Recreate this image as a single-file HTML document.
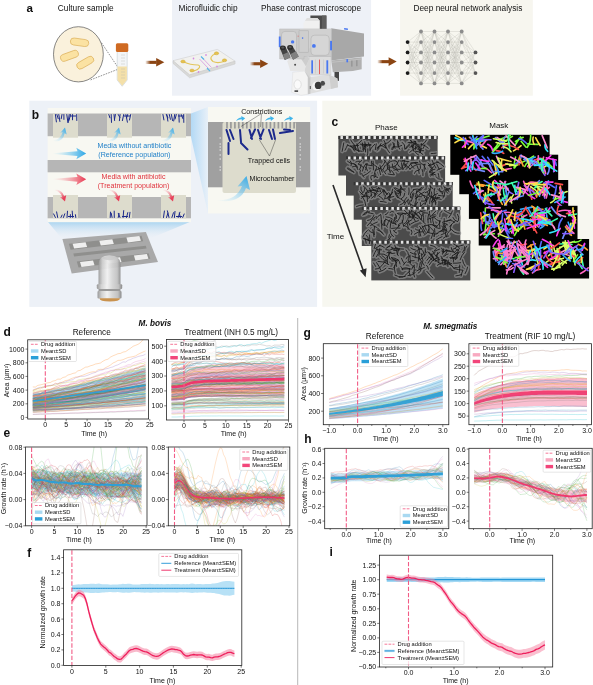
<!DOCTYPE html>
<html><head><meta charset="utf-8"><title>Figure</title>
<style>html,body{margin:0;padding:0;background:#fff}svg{display:block}text{font-family:"Liberation Sans",sans-serif;fill:#111}</style>
</head><body>
<svg width="593" height="685" viewBox="0 0 593 685">
<rect x="172" y="0" width="199.100" height="95.700" fill="#eef1f7"/>
<rect x="400.100" y="0" width="132.700" height="95.700" fill="#f7f6ef"/>
<text x="26.600" y="11.700" font-size="11.600" font-weight="bold">a</text>
<text x="57.800" y="10.800" font-size="8.300">Culture sample</text>
<text x="178.500" y="10.800" font-size="8.300">Microfluidic chip</text>
<text x="261" y="10.800" font-size="8.300">Phase contrast microscope</text>
<text x="413.500" y="10.800" font-size="8.300">Deep neural network analysis</text>
<ellipse cx="78.4" cy="54.3" rx="24.9" ry="27.6" fill="#faf1dc" stroke="#555" stroke-width=".7"/>
<rect x="70.3" y="38.8" width="18.5" height="7" rx="3.5" fill="#fbe2a2" stroke="#d8a84c" stroke-width=".6" transform="rotate(8 79.6 42.3)"/>
<rect x="60.2" y="52.3" width="18.5" height="7" rx="3.5" fill="#fbe2a2" stroke="#d8a84c" stroke-width=".6" transform="rotate(-20 69.5 55.8)"/>
<rect x="76.0" y="59.2" width="18.5" height="7" rx="3.5" fill="#fbe2a2" stroke="#d8a84c" stroke-width=".6" transform="rotate(-30 85.2 62.7)"/>
<path d="M101.5 42.8L117.9 67.3M90.6 79.9L117.9 69.3" stroke="#444" stroke-width=".6" stroke-dasharray="1.6 1.1" fill="none"/>
<path d="M117.2 51.5h10v28.5l-5 6.3l-5-6.3z" fill="#f3f5f7" stroke="#b9c2c9" stroke-width=".5"/>
<path d="M117.5 66.4h9.4v13.5l-4.7 5.9l-4.7-5.9z" fill="#f4e0a9"/>
<path d="M121 55h4M121 58h4M121 61h4M121 64h4M121 69h4M121 72h4M121 75h4M121 78h4" stroke="#b8b8b0" stroke-width=".4"/>
<rect x="115.9" y="43.3" width="12.4" height="8.6" rx="1.5" fill="#cf6a22"/>
<defs><linearGradient id="ga" x1="0" y1="0" x2="1" y2="0"><stop offset="0" stop-color="#8b4513" stop-opacity="0"/><stop offset=".45" stop-color="#8b4513"/></linearGradient></defs>
<rect x="145.2" y="60.8" width="11.4" height="3.100" fill="url(#ga)"/>
<path d="M156.2 58.0L164.3 62.3L156.2 66.6z" fill="#8b4513"/>
<rect x="249.8" y="62.2" width="10.7" height="3.100" fill="url(#ga)"/>
<path d="M260.1 59.5L268.2 63.8L260.1 68.1z" fill="#8b4513"/>
<rect x="377.2" y="60.1" width="11.8" height="3.100" fill="url(#ga)"/>
<path d="M388.6 57.3L396.7 61.6L388.6 65.9z" fill="#8b4513"/>
<path d="M173 60.7L217.4 49.4L235.1 61.2L189.6 74.9z" fill="#f1f1ef" stroke="#c9c9c9" stroke-width=".5"/>
<path d="M173 60.7L189.6 74.9L235.1 61.2v2.8L189.6 77.8L173 63.4z" fill="#d9d9d7" stroke="#c2c2c2" stroke-width=".4"/>
<path d="M184 62c6 3 10 3 14 3c3 1 2 4 -4 6M216 53.5c-5 2 -7 5 -3 8c4 2 8 1 11 0" fill="none" stroke="#e3c55a" stroke-width="1.1"/>
<ellipse cx="183.0" cy="61.5" rx="2.2" ry="1.5" fill="#e6c24e" stroke="#c9a536" stroke-width=".4"/>
<ellipse cx="192.0" cy="70.5" rx="2.2" ry="1.5" fill="#e6c24e" stroke="#c9a536" stroke-width=".4"/>
<ellipse cx="216.5" cy="53.3" rx="2.2" ry="1.5" fill="#e6c24e" stroke="#c9a536" stroke-width=".4"/>
<ellipse cx="224.5" cy="60.3" rx="2.2" ry="1.5" fill="#e6c24e" stroke="#c9a536" stroke-width=".4"/>
<path d="M199.5 59l9 9.5M202.5 58l9 9.5" stroke="#d9a0e0" stroke-width=".9"/>
<path d="M201 56.5l3 3M207 68l3 3.2" stroke="#58b8e8" stroke-width="1.2"/>
<ellipse cx="193.5" cy="58.5" rx=".8" ry="1.1" fill="#d48be0"/>
<ellipse cx="206.0" cy="55.0" rx=".8" ry="1.1" fill="#d48be0"/>
<ellipse cx="198.5" cy="72.0" rx=".8" ry="1.1" fill="#d48be0"/>
<ellipse cx="217.0" cy="66.5" rx=".8" ry="1.1" fill="#d48be0"/>
<g>
<rect x="310.400" y="15.500" width="16" height="13.500" fill="#4c4c4c"/><rect x="322" y="15.500" width="4.400" height="13.500" fill="#5e5e5e"/>
<path d="M306.900 18h10.400l2.500 2.800v8.200h-16.300v-5.700z" fill="#f0f0f0"/><path d="M306.900 18h10.400l2.500 2.800h-14.800z" fill="#dedede"/>
<path d="M331.300 28.300L364 33.600V56.600L331.300 60.400z" fill="#a8a8a8"/>
<path d="M331.300 60.400L361.700 57.200V69.200L352.900 71L332.800 72.300z" fill="#b1b1b1"/>
<path d="M332 62.300L361.700 59" stroke="#c4c4c4" stroke-width=".8"/>
<rect x="351" y="60.600" width="1.600" height="6" fill="#989898"/><rect x="356" y="60.200" width="1.600" height="6" fill="#989898"/>
<rect x="334.500" y="72" width="4.500" height="8.800" fill="#454545"/>
<path d="M307.900 77.200L329.200 74.700L337.400 78.500L338 87.300L307.900 94.200z" fill="#dedede"/>
<path d="M329.200 74.700L337.400 78.500L338 87.300L331 89z" fill="#cfcfcf"/>
<path d="M292.800 72.200L304.700 71L307.900 77.200V94.200L301 95.400L291.600 92.300z" fill="#f3f3f3" stroke="#cfcfcf" stroke-width=".3"/>
<path d="M304.700 71L307.900 77.200V94.200l2.500 -.5V76z" fill="#c8c8c8"/>
<ellipse cx="297.600" cy="84.500" rx="3.600" ry="4.600" fill="#fafafa" stroke="#c9c9c9" stroke-width=".5"/>
<rect x="294.500" y="90.400" width="3.600" height="1.400" fill="#2a2a2a"/>
<ellipse cx="316.500" cy="86" rx="4.300" ry="4.500" fill="#f4f4f4"/><ellipse cx="318.200" cy="85.400" rx="3.400" ry="3.600" fill="#3a3a3a"/><ellipse cx="322.700" cy="83.300" rx="2.300" ry="2.500" fill="#4a4a4a"/>
<rect x="309.800" y="86" width="1" height="3" fill="#555"/>
<rect x="309.500" y="56.500" width="21.500" height="18.500" fill="#dcdcdc" stroke="#bcbcbc" stroke-width=".4"/>
<rect x="311.300" y="60.300" width="1.700" height="13.200" fill="#4a78f0"/><rect x="326.400" y="60.300" width="1.800" height="13.200" fill="#4a78f0"/><rect x="319" y="59.600" width=".9" height="14.500" fill="#e45050"/>
<path d="M315.500 59.500v14M323.500 59.500v14" stroke="#c2c2c2" stroke-width=".5"/>
<path d="M303 59L310 57V78L304.700 71z" fill="#d6d6d6"/>
<path d="M297.800 53.400L309.800 57.800L304.100 71L290.300 71L287.200 60.900z" fill="#e6e6e6"/>
<path d="M297.800 53.400L309.800 57.800L306 66.500L300 57z" fill="#cdcdcd"/>
<circle cx="295.100" cy="64.700" r="1" fill="#4a4a4a"/>
<path d="M279.600 28.900H331.300V56.500H304V59H279.600z" fill="#cbcbcb" stroke="#b0b0b0" stroke-width=".4"/>
<path d="M300 29L331 29L331 40L300 52z" fill="#d6d6d6" opacity=".6"/>
<rect x="281.500" y="31.400" width="15.100" height="22" rx="3.500" fill="#d4d4d4" stroke="#adadad" stroke-width=".5"/>
<rect x="299" y="30.800" width="9.500" height="21.400" fill="#cecece" stroke="#adadad" stroke-width=".5"/>
<rect x="311" y="35.200" width="18.200" height="20.100" rx="3.500" fill="#d6d6d6" stroke="#adadad" stroke-width=".5"/>
<rect x="278.800" y="36.500" width="1.800" height="10.600" fill="#4a78f0"/><rect x="330.100" y="40.900" width="1.900" height="9.400" fill="#4a78f0"/><rect x="346.400" y="59.100" width="1.700" height="3.200" fill="#4a78f0"/><path d="M344.100 29.400l3.800 .6v-1.400l-3.800 -.6z" fill="#4a78f0"/>
<circle cx="292.600" cy="41.900" r="1.700" fill="#4a78f0"/><circle cx="313.900" cy="45.900" r="1.900" fill="#4a78f0"/><circle cx="302.600" cy="38.100" r=".8" fill="#4a78f0"/>
<path d="M297.600 36.200h1.200" stroke="#e45050" stroke-width=".6"/>
<path d="M280.200 48.800l5.200 -2l5 10.500l-5.600 2.800z" fill="#444"/><path d="M287.500 48.400l5.200 -2l6 10l-5.600 3.400z" fill="#444"/>
<path d="M283 54.500l5.400 -2.600l2 5.400l-5.600 2.800z" fill="#808080"/><path d="M290.600 54l5.400 -2.800l2.700 5.200l-5.600 3.400z" fill="#808080"/>
<ellipse cx="282.800" cy="47.800" rx="2.900" ry="2.300" fill="#2c2c2c"/><ellipse cx="290.100" cy="47.400" rx="2.900" ry="2.300" fill="#2c2c2c"/>
<ellipse cx="282.800" cy="47.600" rx="1.600" ry="1.100" fill="#555"/><ellipse cx="290.100" cy="47.200" rx="1.600" ry="1.100" fill="#555"/>
</g>
<path d="M407.6 42.1L421 31.5M407.6 42.1L421 42.1M407.6 42.1L421 52.4M407.6 42.1L421 62.5M407.6 42.1L421 73.1M407.6 42.1L421 83.4M407.6 52.4L421 31.5M407.6 52.4L421 42.1M407.6 52.4L421 52.4M407.6 52.4L421 62.5M407.6 52.4L421 73.1M407.6 52.4L421 83.4M407.6 62.5L421 31.5M407.6 62.5L421 42.1M407.6 62.5L421 52.4M407.6 62.5L421 62.5M407.6 62.5L421 73.1M407.6 62.5L421 83.4M407.6 73.1L421 31.5M407.6 73.1L421 42.1M407.6 73.1L421 52.4M407.6 73.1L421 62.5M407.6 73.1L421 73.1M407.6 73.1L421 83.4M421 31.5L434.5 31.5M421 31.5L434.5 42.1M421 31.5L434.5 52.4M421 31.5L434.5 62.5M421 31.5L434.5 73.1M421 31.5L434.5 83.4M421 42.1L434.5 31.5M421 42.1L434.5 42.1M421 42.1L434.5 52.4M421 42.1L434.5 62.5M421 42.1L434.5 73.1M421 42.1L434.5 83.4M421 52.4L434.5 31.5M421 52.4L434.5 42.1M421 52.4L434.5 52.4M421 52.4L434.5 62.5M421 52.4L434.5 73.1M421 52.4L434.5 83.4M421 62.5L434.5 31.5M421 62.5L434.5 42.1M421 62.5L434.5 52.4M421 62.5L434.5 62.5M421 62.5L434.5 73.1M421 62.5L434.5 83.4M421 73.1L434.5 31.5M421 73.1L434.5 42.1M421 73.1L434.5 52.4M421 73.1L434.5 62.5M421 73.1L434.5 73.1M421 73.1L434.5 83.4M421 83.4L434.5 31.5M421 83.4L434.5 42.1M421 83.4L434.5 52.4M421 83.4L434.5 62.5M421 83.4L434.5 73.1M421 83.4L434.5 83.4M434.5 31.5L448 31.5M434.5 31.5L448 42.1M434.5 31.5L448 52.4M434.5 31.5L448 62.5M434.5 31.5L448 73.1M434.5 31.5L448 83.4M434.5 42.1L448 31.5M434.5 42.1L448 42.1M434.5 42.1L448 52.4M434.5 42.1L448 62.5M434.5 42.1L448 73.1M434.5 42.1L448 83.4M434.5 52.4L448 31.5M434.5 52.4L448 42.1M434.5 52.4L448 52.4M434.5 52.4L448 62.5M434.5 52.4L448 73.1M434.5 52.4L448 83.4M434.5 62.5L448 31.5M434.5 62.5L448 42.1M434.5 62.5L448 52.4M434.5 62.5L448 62.5M434.5 62.5L448 73.1M434.5 62.5L448 83.4M434.5 73.1L448 31.5M434.5 73.1L448 42.1M434.5 73.1L448 52.4M434.5 73.1L448 62.5M434.5 73.1L448 73.1M434.5 73.1L448 83.4M434.5 83.4L448 31.5M434.5 83.4L448 42.1M434.5 83.4L448 52.4M434.5 83.4L448 62.5M434.5 83.4L448 73.1M434.5 83.4L448 83.4M448 31.5L461.7 31.5M448 31.5L461.7 42.1M448 31.5L461.7 52.4M448 31.5L461.7 62.5M448 31.5L461.7 73.1M448 31.5L461.7 83.4M448 42.1L461.7 31.5M448 42.1L461.7 42.1M448 42.1L461.7 52.4M448 42.1L461.7 62.5M448 42.1L461.7 73.1M448 42.1L461.7 83.4M448 52.4L461.7 31.5M448 52.4L461.7 42.1M448 52.4L461.7 52.4M448 52.4L461.7 62.5M448 52.4L461.7 73.1M448 52.4L461.7 83.4M448 62.5L461.7 31.5M448 62.5L461.7 42.1M448 62.5L461.7 52.4M448 62.5L461.7 62.5M448 62.5L461.7 73.1M448 62.5L461.7 83.4M448 73.1L461.7 31.5M448 73.1L461.7 42.1M448 73.1L461.7 52.4M448 73.1L461.7 62.5M448 73.1L461.7 73.1M448 73.1L461.7 83.4M448 83.4L461.7 31.5M448 83.4L461.7 42.1M448 83.4L461.7 52.4M448 83.4L461.7 62.5M448 83.4L461.7 73.1M448 83.4L461.7 83.4M461.7 31.5L475.5 52.4M461.7 31.5L475.5 62.5M461.7 31.5L475.5 73.1M461.7 42.1L475.5 52.4M461.7 42.1L475.5 62.5M461.7 42.1L475.5 73.1M461.7 52.4L475.5 52.4M461.7 52.4L475.5 62.5M461.7 52.4L475.5 73.1M461.7 62.5L475.5 52.4M461.7 62.5L475.5 62.5M461.7 62.5L475.5 73.1M461.7 73.1L475.5 52.4M461.7 73.1L475.5 62.5M461.7 73.1L475.5 73.1M461.7 83.4L475.5 52.4M461.7 83.4L475.5 62.5M461.7 83.4L475.5 73.1" stroke="#a9a9a2" stroke-width=".25" fill="none"/>
<circle cx="407.6" cy="42.1" r="1.900" fill="#1a1a1a"/>
<circle cx="407.6" cy="52.4" r="1.900" fill="#1a1a1a"/>
<circle cx="407.6" cy="62.5" r="1.900" fill="#1a1a1a"/>
<circle cx="407.6" cy="73.1" r="1.900" fill="#1a1a1a"/>
<circle cx="421" cy="31.5" r="1.900" fill="#8c8c8c"/>
<circle cx="421" cy="42.1" r="1.900" fill="#8c8c8c"/>
<circle cx="421" cy="52.4" r="1.900" fill="#8c8c8c"/>
<circle cx="421" cy="62.5" r="1.900" fill="#8c8c8c"/>
<circle cx="421" cy="73.1" r="1.900" fill="#8c8c8c"/>
<circle cx="421" cy="83.4" r="1.900" fill="#8c8c8c"/>
<circle cx="434.5" cy="31.5" r="1.900" fill="#8c8c8c"/>
<circle cx="434.5" cy="42.1" r="1.900" fill="#8c8c8c"/>
<circle cx="434.5" cy="52.4" r="1.900" fill="#8c8c8c"/>
<circle cx="434.5" cy="62.5" r="1.900" fill="#8c8c8c"/>
<circle cx="434.5" cy="73.1" r="1.900" fill="#8c8c8c"/>
<circle cx="434.5" cy="83.4" r="1.900" fill="#8c8c8c"/>
<circle cx="448" cy="31.5" r="1.900" fill="#8c8c8c"/>
<circle cx="448" cy="42.1" r="1.900" fill="#8c8c8c"/>
<circle cx="448" cy="52.4" r="1.900" fill="#8c8c8c"/>
<circle cx="448" cy="62.5" r="1.900" fill="#8c8c8c"/>
<circle cx="448" cy="73.1" r="1.900" fill="#8c8c8c"/>
<circle cx="448" cy="83.4" r="1.900" fill="#8c8c8c"/>
<circle cx="461.7" cy="31.5" r="1.900" fill="#8c8c8c"/>
<circle cx="461.7" cy="42.1" r="1.900" fill="#8c8c8c"/>
<circle cx="461.7" cy="52.4" r="1.900" fill="#8c8c8c"/>
<circle cx="461.7" cy="62.5" r="1.900" fill="#8c8c8c"/>
<circle cx="461.7" cy="73.1" r="1.900" fill="#8c8c8c"/>
<circle cx="461.7" cy="83.4" r="1.900" fill="#8c8c8c"/>
<circle cx="475.5" cy="52.4" r="1.900" fill="#555"/>
<circle cx="475.5" cy="62.5" r="1.900" fill="#555"/>
<circle cx="475.5" cy="73.1" r="1.900" fill="#555"/>
<defs>
<linearGradient id="gb" x1="0" y1="0" x2="1" y2="0"><stop offset="0" stop-color="#7fd3f5" stop-opacity="0"/><stop offset="1" stop-color="#2aa5e6"/></linearGradient>
<linearGradient id="gr" x1="0" y1="0" x2="1" y2="0"><stop offset="0" stop-color="#f59aa0" stop-opacity="0"/><stop offset="1" stop-color="#e8364f"/></linearGradient>
<linearGradient id="gz" x1="0" y1="0" x2="1" y2="0"><stop offset="0" stop-color="#b3d9f5"/><stop offset="1" stop-color="#e8f0f8"/></linearGradient>
<linearGradient id="gv" x1="0" y1="0" x2="0" y2="1"><stop offset="0" stop-color="#a9d4f0"/><stop offset="1" stop-color="#edf1f7" stop-opacity="0"/></linearGradient>
<linearGradient id="gu" x1="0" y1="1" x2="1" y2="0"><stop offset="0" stop-color="#bfe6fa" stop-opacity="0"/><stop offset="1" stop-color="#2aa5e6"/></linearGradient>
</defs>
<rect x="29.3" y="100.700" width="287.800" height="206.200" fill="#edf1f7"/>
<text x="31.800" y="119.200" font-size="12" font-weight="bold">b</text>
<path d="M191 113.5L208 107V213.5L191 137z" fill="url(#gz)"/>
<path d="M47.6 221.6H191L146.6 240L63 240z" fill="url(#gv)"/>
<rect x="47.6" y="108" width="143.4" height="114.200" fill="#f8f8f2"/>
<rect x="47.6" y="113.5" width="143.4" height="22.700" fill="#b6b6b6"/>
<rect x="47.6" y="160" width="143.4" height="12.3" fill="#b6b6b6"/>
<rect x="47.6" y="197" width="143.4" height="21.300" fill="#b6b6b6"/>
<rect x="53" y="113.5" width="25" height="24.200" fill="#dddccd"/>
<rect x="53" y="195" width="25" height="23.300" fill="#dddccd"/>
<rect x="107" y="113.5" width="25" height="24.200" fill="#dddccd"/>
<rect x="107" y="195" width="25" height="23.300" fill="#dddccd"/>
<rect x="161" y="113.5" width="25" height="24.200" fill="#dddccd"/>
<rect x="161" y="195" width="25" height="23.300" fill="#dddccd"/>
<path d="M55.4 114.5l1 7.4M56.9 114.5l1.3 4.2M58.8 114.5l1.1 7M62 114.5l-.8 4.2M63.9 114.5l0 4.9M66.8 114.5l1.1 8M69.2 114.5l-1 7.9M70.6 114.5l-1.6 5.9M72.6 114.5l-.1 5.3M76.7 114.5l.1 6" stroke="#1c2a8c" stroke-width="1" fill="none" stroke-linecap="round"/>
<path d="M55.4 217.5l-1.8 -3.6M57.7 217.5l-1.1 -5.6M60.9 217.5l1.2 -2.5M63.4 217.5l1.4 -3.7M67 217.5l.5 -6.3M70.3 217.5l.1 -2.9M72.7 217.5l-.5 -6.4M75.8 217.5l-.4 -2.8" stroke="#1c2a8c" stroke-width="1" fill="none" stroke-linecap="round"/>
<path d="M70 116h6" stroke="#1c2a8c" stroke-width="1"/>
<path d="M68 216.5h6" stroke="#1c2a8c" stroke-width="1"/>
<path d="M108.8 114.5l1.1 3.3M111.2 114.5l.3 7.9M114 114.5l.6 6M115.4 114.5l-.9 4.9M118.2 114.5l1.7 3M120.1 114.5l-.7 6.2M123.7 114.5l-1.3 6.1M125.9 114.5l1.5 7.7M127.7 114.5l-1.1 3.3M130.7 114.5l-1.2 5.5" stroke="#1c2a8c" stroke-width="1" fill="none" stroke-linecap="round"/>
<path d="M110.2 217.5l.3 -5.4M112.1 217.5l-.9 -4.3M114.3 217.5l-.1 -6.4M118.2 217.5l.9 -3.9M120 217.5l-1.7 -4.2M123.1 217.5l.6 -6.9M126.5 217.5l1.3 -4.9M129.3 217.5l.7 -5.2" stroke="#1c2a8c" stroke-width="1" fill="none" stroke-linecap="round"/>
<path d="M124 116h6" stroke="#1c2a8c" stroke-width="1"/>
<path d="M122 216.5h6" stroke="#1c2a8c" stroke-width="1"/>
<path d="M162.9 114.5l1 5.4M166.3 114.5l1.6 3.3M166.8 114.5l1.1 6.6M169.3 114.5l1.1 4.8M171.4 114.5l1.1 6M174.7 114.5l-1 6.5M176.3 114.5l-1.2 4.5M178.9 114.5l.3 7.7M181.2 114.5l1.6 4M183.7 114.5l.1 7.9" stroke="#1c2a8c" stroke-width="1" fill="none" stroke-linecap="round"/>
<path d="M163.5 217.5l.9 -6.5M166.5 217.5l1.4 -4.4M169 217.5l-1.6 -6.7M171.9 217.5l1.6 -4.8M174.4 217.5l.6 -6.1M178.2 217.5l1.7 -5.3M180.4 217.5l-1.1 -4.3M182.7 217.5l1.5 -3.5" stroke="#1c2a8c" stroke-width="1" fill="none" stroke-linecap="round"/>
<path d="M178 116h6" stroke="#1c2a8c" stroke-width="1"/>
<path d="M176 216.5h6" stroke="#1c2a8c" stroke-width="1"/>
<defs><linearGradient id="gd" x1="0" y1="0" x2="1" y2="1"><stop offset="0" stop-color="#f7b0b8" stop-opacity="0"/><stop offset=".75" stop-color="#e8405a"/></linearGradient></defs>
<path d="M53.3 140.200q7.500 -.8 9.300 -8.200l-2.500 .9l4.900 -5.300l1.700 7l-2.100 -1.300q-1.500 9.300 -11.300 8.200z" fill="url(#gu)"/>
<path d="M55 189.300q7.500 .8 9.200 7l2 -1.100l-1.200 6.300l-5 -4.400l2.200 .2q-1.800 -5.800 -7.200 -6.700z" fill="url(#gd)"/>
<path d="M107.3 140.200q7.500 -.8 9.300 -8.200l-2.500 .9l4.900 -5.300l1.700 7l-2.100 -1.300q-1.500 9.300 -11.300 8.200z" fill="url(#gu)"/>
<path d="M109 189.300q7.500 .8 9.200 7l2 -1.100l-1.200 6.300l-5 -4.400l2.200 .2q-1.800 -5.800 -7.200 -6.700z" fill="url(#gd)"/>
<path d="M161.3 140.200q7.500 -.8 9.300 -8.200l-2.500 .9l4.900 -5.300l1.700 7l-2.100 -1.300q-1.500 9.300 -11.300 8.200z" fill="url(#gu)"/>
<path d="M163 189.300q7.500 .8 9.200 7l2 -1.100l-1.200 6.300l-5 -4.400l2.200 .2q-1.800 -5.800 -7.200 -6.700z" fill="url(#gd)"/>
<path d="M53 153.200L77.500 151.300L76.300 147.800L86.200 153.600L76.300 159.300L77.500 156L53 154z" fill="url(#gb)"/>
<path d="M53 178.800L77.500 176.900L76.300 173.600L86.200 179.300L76.300 185L77.500 181.700L53 179.600z" fill="url(#gr)"/>
<text x="134.400" y="148.300" font-size="7.100" text-anchor="middle" style="fill:#1e7fc8">Media without antibiotic</text>
<text x="134.400" y="157.400" font-size="7.100" text-anchor="middle" style="fill:#1e7fc8">(Reference population)</text>
<text x="133.500" y="178.800" font-size="7.100" text-anchor="middle" style="fill:#e0323c">Media with antibiotic</text>
<text x="133.500" y="187.900" font-size="7.100" text-anchor="middle" style="fill:#e0323c">(Treatment population)</text>
<path d="M62.400 238.900L145.900 232L158 262.100L71.700 273.600z" fill="#a9a9a9"/>
<path d="M68.900 243.700L141.500 235.800L143.200 241.300L70.600 249.700z" fill="#8f8f8d"/>
<path d="M73.300 253.600L145.800 245.800L146.600 248.500L74.100 256.500z" fill="#8f8f8d"/>
<path d="M76.800 261.500L148.600 253.200L150.300 258.800L78.500 267.600z" fill="#8f8f8d"/>
<path d="M72.6 243.8l13 -1.500l1.500 4.700l-13 1.600z" fill="#efefef"/>
<path d="M99.3 240.7l13 -1.500l1.500 4.700l-13 1.600z" fill="#efefef"/>
<path d="M126.4 237.6l13 -1.500l1.500 4.700l-13 1.600z" fill="#efefef"/>
<path d="M80 262l13 -1.600l1.500 4.800l-13 1.700z" fill="#efefef"/>
<path d="M107 258.8l13 -1.600l1.500 4.800l-13 1.700z" fill="#efefef"/>
<path d="M133.9 255.6l13 -1.600l1.500 4.800l-13 1.700z" fill="#efefef"/>
<defs><linearGradient id="go" x1="0" y1="0" x2="1" y2="0"><stop offset="0" stop-color="#9a9a9a"/><stop offset=".18" stop-color="#d2d2d2"/><stop offset=".4" stop-color="#f1f1f1"/><stop offset=".62" stop-color="#d6d6d6"/><stop offset=".85" stop-color="#c2c2c2"/><stop offset="1" stop-color="#8c8c8c"/></linearGradient></defs>
<path d="M98.500 264q0 -8.500 11 -8.500q11 0 11 8.500V285H98.500z" fill="url(#go)" opacity=".93"/>
<ellipse cx="109.500" cy="258" rx="7" ry="2.200" fill="#c9c9c9" opacity=".8"/>
<rect x="96.800" y="284.200" width="25.400" height="4.800" rx="1" fill="url(#go)"/>
<rect x="98.500" y="289" width="22" height="2.200" fill="#9a9a9a"/>
<rect x="97.500" y="291" width="24" height="7.500" rx="1" fill="url(#go)"/>
<path d="M99.500 298.300h20.500q0 3.300 -10.200 3.300q-10.300 0 -10.300 -3.300z" fill="#c9924e"/>
<rect x="208" y="107" width="102.200" height="106.500" fill="#f8f8f2"/>
<rect x="208" y="122" width="16.500" height="65.300" fill="#a0a0a0"/>
<rect x="294.5" y="122" width="15.700" height="65.300" fill="#a0a0a0"/>
<rect x="222.500" y="122" width="73.500" height="71" rx="2" fill="#dddccd"/>
<path d="M227 122v6.500M230.9 122v6.500M234.9 122v6.500M238.8 122v6.500M242.8 122v6.500M246.8 122v6.500M250.7 122v6.500M254.7 122v6.500M258.6 122v6.500M262.6 122v6.500M266.5 122v6.500M270.4 122v6.500M274.4 122v6.500M278.4 122v6.500M282.3 122v6.500M286.2 122v6.500M290.2 122v6.500M294.1 122v6.500" stroke="#9a9a9a" stroke-width="1.700"/>
<path d="M219.5 138h1.500M299.5 138h1.500M219.5 144h1.500M299.5 144h1.500M219.5 147h1.500M299.5 147h1.500M219.5 150h1.500M299.5 150h1.500M219.5 155h1.500M299.5 155h1.500M219.5 159h1.500M299.5 159h1.500M219.5 167h1.500M299.5 167h1.500M219.5 170h1.500M299.5 170h1.500" stroke="#ececec" stroke-width="1.100"/>
<path d="M226.5 130L230 141M230 130L233.5 139M228.5 143L228.5 154M240 130L241 142M241 143L247.5 149.5M249.5 130L252 139M255 129.5L251 138M258 130L261 139M263.5 129.5L260 138.5M269 130L272 139M273 129.5L275 139M280 133L293 131M284 129.5L290 130" stroke="#1c2a8c" stroke-width="2" stroke-linecap="round" fill="none"/>
<path d="M261.500 113.500L241 126.500M261.500 113.500L260.500 127M259.500 140L269.500 156M275.500 140L269.500 156" stroke="#222" stroke-width=".4" fill="none"/>
<text x="261.700" y="113.500" font-size="7.100" text-anchor="middle">Constrictions</text>
<text x="269" y="163" font-size="7.100" text-anchor="middle">Trapped cells</text>
<text x="272" y="181" font-size="7.100" text-anchor="middle">Microchamber</text>
<path d="M236 121q2 -3.500 5.500 -3.500l-.3 -1.500l4 2.300l-3.300 2.600l-.2 -1.600q-2.800 -.2 -5.700 1.700z" fill="#3fb4ea"/>
<path d="M265 121q2 -3.500 5.500 -3.500l-.3 -1.500l4 2.300l-3.300 2.600l-.2 -1.600q-2.800 -.2 -5.700 1.700z" fill="#3fb4ea"/>
<path d="M284 121q2 -3.500 5.500 -3.500l-.3 -1.500l4 2.300l-3.300 2.600l-.2 -1.600q-2.800 -.2 -5.700 1.700z" fill="#3fb4ea"/>
<path d="M214 200q22 2 28 -14l-4.500 .5l9 -10.500l3.500 14l-4 -2q-6 17 -32 12z" fill="url(#gu)"/>
<rect x="322.300" y="100.700" width="270.700" height="206.100" fill="#f7f7f0"/>
<text x="331.500" y="125.500" font-size="12" font-weight="bold">c</text>
<text x="386.300" y="130" font-size="8" text-anchor="middle">Phase</text>
<text x="498.800" y="128.400" font-size="8" text-anchor="middle">Mask</text>
<text x="326.700" y="239.400" font-size="8">Time</text>
<path d="M333 185L364.300 273.500" stroke="#2a2a2a" stroke-width="1.600" fill="none"/>
<path d="M365.600 277.300L359.800 270.600L366.600 268.300z" fill="#2a2a2a"/>
<defs><filter id="bl" x="-5%" y="-20%" width="110%" height="140%"><feGaussianBlur stdDeviation=".7"/></filter></defs>
<g>
<rect x="338.4" y="135.9" width="99.2" height="39.6" fill="#4b4b4b"/>
<rect x="338.4" y="135.9" width="99.2" height="3.200" fill="#333"/>
<path d="M341.7 136.1v3M347.2 136.1v3M352.7 136.1v3M358.2 136.1v3M363.7 136.1v3M369.2 136.1v3M374.7 136.1v3M380.2 136.1v3M385.7 136.1v3M391.2 136.1v3M396.7 136.1v3M402.2 136.1v3M407.7 136.1v3M413.2 136.1v3M418.7 136.1v3M424.2 136.1v3M429.7 136.1v3M435.2 136.1v3" stroke="#e4e4e4" stroke-width="2.500"/>
<path d="M397.5 141q2.5 2.4 .8 5.5M383.7 144.5q1.6 1.5 2.2 3.7M416.6 147.2q-3.7 2.3 -6.9 5.1M424.8 144.8q-.7 2 -1.8 3.8M364.9 141.8q1.2 2.4 -.9 4.1M353.8 144.3q1.6 4.2 4.9 7.2M415 146.7q2.3 2.7 5.3 4.4M414.7 151.2q1.4 2.7 4.1 4M347.3 144.9q3.7 2 7.6 3.4M350.7 145.4q2.1 2.7 3.9 5.7M414.4 140.9q3.2 2.9 4.9 6.9M343.8 142.9q-.8 4.3 -1.7 8.5M365.9 144.6q-1.6 2.5 -2.9 5.1M402.2 142.3q3.5 2.2 2.6 6.2M360.2 144.1q4.1 -.4 7.5 2M418.8 144.3q.9 4.1 1.7 8.2M361.7 140.5q-3.1 2.9 -6.3 5.7M353.6 148.8q4 2.4 8.6 2.6M421.7 148.4q-.8 2.3 -2.1 4.4M411.4 145.4q1.8 2.5 2.3 5.7M421.4 143.5q-.5 3.8 -1.1 7.5M415.9 151.2q4.3 -.1 7.1 3.3M353.3 145.9q2.6 1.1 2.4 4M415.7 141.5q-3.8 .9 -7.7 1.2M361.9 145.3q1.9 .8 3.8 1.6M350.7 139.9q1.1 2.2 2.8 4.1M365.9 144.8q-.4 3.6 -.4 7.1M379 146.3q.9 3 -1.9 4.3M436.2 153.1q-2.5 .4 -5 .5M385.8 146.9q1.7 3.1 3.8 5.9M362.4 143q.4 4.1 1 8.1M409.7 144.9q-2.3 1.6 -3.8 4M410.2 140.2q1.6 2.5 4.5 3.5M358.6 145.4q-3.4 .2 -6.8 .7M367.9 148.8q.5 4.5 -1.3 8.7M382.9 144.8q-3.9 .9 -5.9 4.3M394.3 146.2q-2.8 .3 -2.7 3.1M384 140.4q2.5 3.3 2 7.4M392.9 142.4q1.1 2.9 2.2 5.9M426.7 139.9q-1.8 3.5 -5.3 5.3M415.3 143.1q2.2 3 3.8 6.3M381.1 143.6q-1.1 3 -4.1 4.2M414.8 144.1q-1.5 3.3 -5.1 3.1M415 141.5q2 4.1 .3 8.3M394.3 143.6q0 3.2 -1.6 5.9M371.1 144.5q-2.9 1.5 -5.8 0M376.3 143.9q-.7 2.9 -1 5.8M420.9 144.3q4.4 .6 7.4 3.9M391 140q-2.6 3.5 -7 4.2M413.9 143q-1.6 2.3 -.7 5M410.4 143.2q-3.4 2.4 -5.4 6M347.6 144.9q-1.2 2.7 -2.6 5.3M364.9 145q-2.2 2.6 .1 5M364.9 144.1q3 .6 6 1.3M411.2 140.6q1 3.1 1.3 6.3M380.2 145.3q2.4 .6 4.4 2M356.9 143.8q.6 4 2.1 7.8M401.7 145.5q-3.9 2.5 -8.3 1.2M397.5 140.7q-.9 4.8 2.2 8.5M374.8 144.2q-2.8 2.5 -4.8 5.7M419.2 149.7q2.1 1.4 4.5 1.1M368.4 142.7q2.1 3.9 1.8 8.3" stroke="#8e8e8e" stroke-width="4" stroke-linecap="round" fill="none" opacity=".7" filter="url(#bl)"/>
<path d="M397.5 141q2.5 2.4 .8 5.5M383.7 144.5q1.6 1.5 2.2 3.7M416.6 147.2q-3.7 2.3 -6.9 5.1M424.8 144.8q-.7 2 -1.8 3.8M364.9 141.8q1.2 2.4 -.9 4.1M353.8 144.3q1.6 4.2 4.9 7.2M415 146.7q2.3 2.7 5.3 4.4M414.7 151.2q1.4 2.7 4.1 4M347.3 144.9q3.7 2 7.6 3.4M350.7 145.4q2.1 2.7 3.9 5.7M414.4 140.9q3.2 2.9 4.9 6.9M343.8 142.9q-.8 4.3 -1.7 8.5M365.9 144.6q-1.6 2.5 -2.9 5.1M402.2 142.3q3.5 2.2 2.6 6.2M360.2 144.1q4.1 -.4 7.5 2M418.8 144.3q.9 4.1 1.7 8.2M361.7 140.5q-3.1 2.9 -6.3 5.7M353.6 148.8q4 2.4 8.6 2.6M421.7 148.4q-.8 2.3 -2.1 4.4M411.4 145.4q1.8 2.5 2.3 5.7M421.4 143.5q-.5 3.8 -1.1 7.5M415.9 151.2q4.3 -.1 7.1 3.3M353.3 145.9q2.6 1.1 2.4 4M415.7 141.5q-3.8 .9 -7.7 1.2M361.9 145.3q1.9 .8 3.8 1.6M350.7 139.9q1.1 2.2 2.8 4.1M365.9 144.8q-.4 3.6 -.4 7.1M379 146.3q.9 3 -1.9 4.3M436.2 153.1q-2.5 .4 -5 .5M385.8 146.9q1.7 3.1 3.8 5.9M362.4 143q.4 4.1 1 8.1M409.7 144.9q-2.3 1.6 -3.8 4M410.2 140.2q1.6 2.5 4.5 3.5M358.6 145.4q-3.4 .2 -6.8 .7M367.9 148.8q.5 4.5 -1.3 8.7M382.9 144.8q-3.9 .9 -5.9 4.3M394.3 146.2q-2.8 .3 -2.7 3.1M384 140.4q2.5 3.3 2 7.4M392.9 142.4q1.1 2.9 2.2 5.9M426.7 139.9q-1.8 3.5 -5.3 5.3M415.3 143.1q2.2 3 3.8 6.3M381.1 143.6q-1.1 3 -4.1 4.2M414.8 144.1q-1.5 3.3 -5.1 3.1M415 141.5q2 4.1 .3 8.3M394.3 143.6q0 3.2 -1.6 5.9M371.1 144.5q-2.9 1.5 -5.8 0M376.3 143.9q-.7 2.9 -1 5.8M420.9 144.3q4.4 .6 7.4 3.9M391 140q-2.6 3.5 -7 4.2M413.9 143q-1.6 2.3 -.7 5M410.4 143.2q-3.4 2.4 -5.4 6M347.6 144.9q-1.2 2.7 -2.6 5.3M364.9 145q-2.2 2.6 .1 5M364.9 144.1q3 .6 6 1.3M411.2 140.6q1 3.1 1.3 6.3M380.2 145.3q2.4 .6 4.4 2M356.9 143.8q.6 4 2.1 7.8M401.7 145.5q-3.9 2.5 -8.3 1.2M397.5 140.7q-.9 4.8 2.2 8.5M374.8 144.2q-2.8 2.5 -4.8 5.7M419.2 149.7q2.1 1.4 4.5 1.1M368.4 142.7q2.1 3.9 1.8 8.3" stroke="#1c1c1c" stroke-width=".900" stroke-linecap="round" fill="none"/>
</g>
<g>
<rect x="346" y="156.2" width="99.1" height="39.4" fill="#4b4b4b"/>
<rect x="346" y="156.2" width="99.1" height="3.200" fill="#333"/>
<path d="M349.3 156.4v3M354.8 156.4v3M360.3 156.4v3M365.8 156.4v3M371.3 156.4v3M376.8 156.4v3M382.3 156.4v3M387.8 156.4v3M393.3 156.4v3M398.8 156.4v3M404.3 156.4v3M409.8 156.4v3M415.3 156.4v3M420.8 156.4v3M426.3 156.4v3M431.8 156.4v3M437.3 156.4v3M442.8 156.4v3" stroke="#e4e4e4" stroke-width="2.500"/>
<path d="M415.9 162.3q-2.5 1.2 -5.2 1M360.4 170.1q-.9 2 -.2 4.2M380.2 168.2q-2.5 1.2 -5 2.3M410.9 163.8q-2.3 3 -4.9 5.7M347.2 168.5q3.1 2.2 6.7 3.8M390.9 170.1q2.2 1.8 3.4 4.3M365.8 164.5q3.1 .9 6.2 1.2M356.3 166.2q-2 .1 -4 .7M380.4 167.9q3.4 2.3 5.4 6M388.1 174q2.9 .6 5.9 .8M353.7 163.7q3.1 2.2 4.2 5.9M401.5 162.9q0 3.5 1.6 6.5M404.9 160.2q-1.4 3.8 -3 7.5M397.9 164.7q1.5 2.6 3.9 4.4M416.9 164.5q-4.1 1.6 -7.2 4.7M371.4 161.2q-.5 2.2 .6 4.2M365.1 166.6q1.8 1.7 2.4 4.2M395.2 166.8q1.6 3.4 5.2 2.5M395 160.6q2.9 .4 2.7 3.3M361.1 164.3q.1 2.8 -1.5 5.2M378.3 167.2q1.6 3.6 2.3 7.4M434.1 172.3q-1.6 2.1 -3.6 3.9M389.1 165.2q.2 3.8 1.1 7.5M359.8 161.2q-2.2 -.3 -4.1 .8M417.1 165.7q1.8 3.7 2.1 7.8M422.1 169.4q1.3 3 .9 6.2M436.7 164.2q1.3 2.6 2.6 5.3M392.3 164q-.2 2.5 1 4.6M420.4 165.5q1 3 -1.4 5M372.1 163.4q2.2 1.7 4.6 3.3M379.9 165.1q.3 3.9 2.4 7.1M436.6 161.3q4 2.2 7.2 5.3M404.1 163.8q1.9 1.2 2.1 3.4M347.9 167.7q3.1 2.1 6 4.5M371.2 175.5q-1.3 2.3 .3 4.5M347.4 161.2q2.7 2.8 6.6 2.8M361.7 173.5q.3 2.4 2.2 3.8M410.7 164.2q1.2 2.4 3.2 4.2M438.2 173.5q.5 2 .8 4M395 160.8q-5.2 -.5 -7.9 4M430.4 163.8q-1.9 2 -.1 4M370.5 171.1q-3.1 3 -7.1 4.7M375.4 173.6q1.7 2.9 -1.4 4M435.8 176.7q2 2.7 5.4 2.8M404.5 163.3q2.9 2.8 5.6 5.8M417.8 162.5q-3.4 -.2 -6.7 .5M387.3 168.4q1.9 1 2.9 2.9M385.4 165.1q-1.4 2 -2.3 4.3M441.8 168.1q-2.9 .3 -4.9 2.3M376.7 167.5q-2.1 3.8 -2.7 8.2M423.8 165.4q1.1 1.9 2 3.9M435.1 172.3q-2.3 2.1 -5 .5M433.7 166.7q-3.1 1.7 -4.3 5M361.6 160.4q-1.4 1.9 -3.2 3.5M389.6 160.4q-3.1 2.2 -1.6 5.8M432.1 160.3q1.4 4 3.8 7.6M393.8 170q3 -1.8 4.5 1.4M350.4 161q2.1 2.1 .7 4.8M354.8 163.9q2.4 1 2.8 3.5M425 164.1q-1.1 3.5 -.9 7.1M428 162.9q2.4 2.5 4.3 5.3M414.5 163.2q2.8 1.6 6 1.1M419.4 160.8q1 4.3 5.4 3.7M395.3 165.9q-2.5 1.7 -5.4 1.4M402.2 160.6q3.2 1.1 6.7 1M385.5 160.9q-1.7 4.1 -5 7.1M404.5 160.4q-2.1 1.6 -4.6 .6M399 160.1q-1.5 4 -4.4 7M406 166.2q-2.3 .8 -3.4 3M431.9 168.4q-.3 3.9 1.1 7.5M373.1 161.2q.4 4.3 .3 8.7M367.2 163.5q-.7 3.2 -1.6 6.4M435 169.1q-3.9 0 -5.4 3.5M407.6 162.8q-.9 2.3 -3.4 2.7M434.4 163.4q-2.6 2.1 -6 2.2M388.4 167.7q-.9 2.4 -3.2 3.6M384.2 160q3.7 3.1 3.5 7.9M430 174.9q3 -2.2 5.9 0M417.7 170.3q-2.8 .3 -3.3 3.1M358.3 164q3.1 1.4 5.4 3.8M372.4 175.5q2.7 .9 5.3 1.9M438.4 162.1q-3.5 .7 -6.6 2.4M394.2 167.9q1 2.4 3.6 2.2M366.2 163.3q-3.2 3.3 -3.8 7.8" stroke="#8e8e8e" stroke-width="4" stroke-linecap="round" fill="none" opacity=".7" filter="url(#bl)"/>
<path d="M415.9 162.3q-2.5 1.2 -5.2 1M360.4 170.1q-.9 2 -.2 4.2M380.2 168.2q-2.5 1.2 -5 2.3M410.9 163.8q-2.3 3 -4.9 5.7M347.2 168.5q3.1 2.2 6.7 3.8M390.9 170.1q2.2 1.8 3.4 4.3M365.8 164.5q3.1 .9 6.2 1.2M356.3 166.2q-2 .1 -4 .7M380.4 167.9q3.4 2.3 5.4 6M388.1 174q2.9 .6 5.9 .8M353.7 163.7q3.1 2.2 4.2 5.9M401.5 162.9q0 3.5 1.6 6.5M404.9 160.2q-1.4 3.8 -3 7.5M397.9 164.7q1.5 2.6 3.9 4.4M416.9 164.5q-4.1 1.6 -7.2 4.7M371.4 161.2q-.5 2.2 .6 4.2M365.1 166.6q1.8 1.7 2.4 4.2M395.2 166.8q1.6 3.4 5.2 2.5M395 160.6q2.9 .4 2.7 3.3M361.1 164.3q.1 2.8 -1.5 5.2M378.3 167.2q1.6 3.6 2.3 7.4M434.1 172.3q-1.6 2.1 -3.6 3.9M389.1 165.2q.2 3.8 1.1 7.5M359.8 161.2q-2.2 -.3 -4.1 .8M417.1 165.7q1.8 3.7 2.1 7.8M422.1 169.4q1.3 3 .9 6.2M436.7 164.2q1.3 2.6 2.6 5.3M392.3 164q-.2 2.5 1 4.6M420.4 165.5q1 3 -1.4 5M372.1 163.4q2.2 1.7 4.6 3.3M379.9 165.1q.3 3.9 2.4 7.1M436.6 161.3q4 2.2 7.2 5.3M404.1 163.8q1.9 1.2 2.1 3.4M347.9 167.7q3.1 2.1 6 4.5M371.2 175.5q-1.3 2.3 .3 4.5M347.4 161.2q2.7 2.8 6.6 2.8M361.7 173.5q.3 2.4 2.2 3.8M410.7 164.2q1.2 2.4 3.2 4.2M438.2 173.5q.5 2 .8 4M395 160.8q-5.2 -.5 -7.9 4M430.4 163.8q-1.9 2 -.1 4M370.5 171.1q-3.1 3 -7.1 4.7M375.4 173.6q1.7 2.9 -1.4 4M435.8 176.7q2 2.7 5.4 2.8M404.5 163.3q2.9 2.8 5.6 5.8M417.8 162.5q-3.4 -.2 -6.7 .5M387.3 168.4q1.9 1 2.9 2.9M385.4 165.1q-1.4 2 -2.3 4.3M441.8 168.1q-2.9 .3 -4.9 2.3M376.7 167.5q-2.1 3.8 -2.7 8.2M423.8 165.4q1.1 1.9 2 3.9M435.1 172.3q-2.3 2.1 -5 .5M433.7 166.7q-3.1 1.7 -4.3 5M361.6 160.4q-1.4 1.9 -3.2 3.5M389.6 160.4q-3.1 2.2 -1.6 5.8M432.1 160.3q1.4 4 3.8 7.6M393.8 170q3 -1.8 4.5 1.4M350.4 161q2.1 2.1 .7 4.8M354.8 163.9q2.4 1 2.8 3.5M425 164.1q-1.1 3.5 -.9 7.1M428 162.9q2.4 2.5 4.3 5.3M414.5 163.2q2.8 1.6 6 1.1M419.4 160.8q1 4.3 5.4 3.7M395.3 165.9q-2.5 1.7 -5.4 1.4M402.2 160.6q3.2 1.1 6.7 1M385.5 160.9q-1.7 4.1 -5 7.1M404.5 160.4q-2.1 1.6 -4.6 .6M399 160.1q-1.5 4 -4.4 7M406 166.2q-2.3 .8 -3.4 3M431.9 168.4q-.3 3.9 1.1 7.5M373.1 161.2q.4 4.3 .3 8.7M367.2 163.5q-.7 3.2 -1.6 6.4M435 169.1q-3.9 0 -5.4 3.5M407.6 162.8q-.9 2.3 -3.4 2.7M434.4 163.4q-2.6 2.1 -6 2.2M388.4 167.7q-.9 2.4 -3.2 3.6M384.2 160q3.7 3.1 3.5 7.9M430 174.9q3 -2.2 5.9 0M417.7 170.3q-2.8 .3 -3.3 3.1M358.3 164q3.1 1.4 5.4 3.8M372.4 175.5q2.7 .9 5.3 1.9M438.4 162.1q-3.5 .7 -6.6 2.4M394.2 167.9q1 2.4 3.6 2.2M366.2 163.3q-3.2 3.3 -3.8 7.8" stroke="#1c1c1c" stroke-width=".900" stroke-linecap="round" fill="none"/>
</g>
<g>
<rect x="353.7" y="182" width="99" height="37.7" fill="#4b4b4b"/>
<rect x="353.7" y="182" width="99" height="3.200" fill="#333"/>
<path d="M357 182.2v3M362.5 182.2v3M368 182.2v3M373.5 182.2v3M379 182.2v3M384.5 182.2v3M390 182.2v3M395.5 182.2v3M401 182.2v3M406.5 182.2v3M412 182.2v3M417.5 182.2v3M423 182.2v3M428.5 182.2v3M434 182.2v3M439.5 182.2v3M445 182.2v3M450.5 182.2v3" stroke="#e4e4e4" stroke-width="2.500"/>
<path d="M424.8 202.9q-2.6 .8 -3.7 3.2M406.7 197.4q-2.3 2.2 -2.7 5.3M400 190.6q1.2 2.7 .1 5.4M373.4 189.5q-3.3 2.5 -7.2 4M415.1 202.9q0 3.2 -1.1 6.1M417.7 202.2q-1.5 2.2 -3.2 4.2M423.6 187.2q-2.8 3 -6.4 4.9M387.9 193q-3.3 2.1 -3.4 6M394.9 187.6q3.8 1.2 6.5 4.1M366.8 192.2q-2.5 3.4 -5.5 6.4M429 188.2q2.1 2.8 .1 5.6M407.7 199.9q-2.4 1.9 -3.3 4.9M388.9 192.8q2.6 2.6 -.8 4M378.6 187.3q-.5 4.5 -4 7.5M367.9 195q-2.5 -.2 -4.3 1.5M400.2 185.6q1.2 3.9 4.9 5.8M390.9 194.2q-1.2 2.9 -1.5 6M431.3 196.5q3.7 2.3 4.9 6.4M410.5 204.2q3.1 1.9 6.6 3M392.7 192.2q-1.5 2.6 -3.6 4.8M419 191.9q2.7 2.5 5.8 4.4M401.5 187.6q-2.3 1.3 -3.4 3.6M400.9 185.9q1.2 4.9 -2.5 8.4M413.3 189.5q3.9 -1.2 7.7 .3M434.8 188.3q-1 2.8 -.6 5.7M369.5 188q2.1 3.7 2 8M420.4 202.6q.2 2.2 -.1 4.5M431.5 191.9q.9 2.5 -.1 5M444.6 189.6q-2 1.6 -2.2 4.2M361.6 196.4q3.8 .3 7.6 .3M427.6 192.5q.6 4.2 4.5 5.8M429.8 186q2.2 .9 3.3 3M383.8 189.5q1.6 2.6 3.7 4.9M364.8 188q.1 4.3 -3.8 6.1M363.2 185.9q3.4 2.2 4.9 6M413.9 190q-4.6 2.5 -3.4 7.6M359.7 191.7q2 2.5 4.7 4.1M447.1 188.9q-2.8 2.7 .8 4.3M360.9 187q-.7 3.1 1.5 5.4M393.9 188q2.8 3.4 7 4.4M433.2 197.4q3.9 1.4 8 2M383.8 190.5q-2.9 2.9 -6.1 5.4M375.6 190q-4.5 -.5 -8.6 1.2M424.2 197q2 1.3 1.6 3.7M408.9 187.9q.6 3.3 -.2 6.6M373.2 190.3q2.8 1.5 5.9 1.1M381.6 188.6q2.8 2.7 2.7 6.6M377.4 193.4q-2.9 2.4 -5.8 4.8M437.6 197.2q-.3 2.6 -2.4 4.1M379.2 187.8q1.2 1.8 1.3 3.9M428.5 197.4q-2.5 3.4 -3.5 7.4M371.2 187.6q2.2 2.9 5.7 3.4M420.5 193.5q-1.8 3.4 -5.2 5.5M395.6 191.6q-.4 3.3 2.7 4.6M429.5 191.9q0 2.5 .7 5M450 187.9q-1.7 1.3 -3 3M443.7 185.9q1.5 2 1.9 4.5M430.3 198.4q-.6 2.5 -.7 5.1M424.3 192q-1.8 1.1 -3.6 2M380.2 201.4q3.1 .1 6 .9M371.7 194.5q-1.6 1.8 -2.9 3.9M374.7 192.9q1.4 2.2 .2 4.5M404.8 193.2q.1 3.9 -3.4 5.5M397.3 190.6q3.6 .6 3.2 4.3M430.3 185.5q1.4 2.9 -.5 5.5M392.8 189.1q-.7 4.2 -3.2 7.6M400.8 192.5q-2 1.3 -4.3 .7M421.6 196.7q-3.3 -.9 -5.9 1.2M363 197.6q2.4 3.6 2.8 8M438.5 195.4q3.1 .6 6.2 .6M439.5 197.5q-5.1 -.4 -7.7 4M387.7 197.5q-.1 3 2.9 3.3M421.9 187.3q-4 2.1 -6 6.1M376.9 186.8q-2.5 .9 -5.1 .2M444.9 191.6q-.1 3.5 -1.9 6.5M383.4 189.9q1.2 2.2 3 3.9M437.6 189.3q1.9 2.2 4.8 2.5M445.7 187.6q2.7 1.4 3.4 4.3M365.6 192.7q2.5 4 1.9 8.7M446.3 189.3q2.2 -1.5 4.4 -.2M426.6 200.2q-2.4 1.5 -5.2 .9M433.8 198.9q1.8 2.7 2 6M393.8 196.5q-4.1 .9 -8.2 2M427.3 194.8q-1.2 3.4 -.7 7M437.5 193.5q-3.5 1.4 -6.3 4M379.1 196.1q3 1.2 4.5 4.1M394.6 190.9q.4 4.1 3.3 7M413.1 192.9q-1 2.5 -1.5 5.1M415.9 201.7q.5 3.9 -.7 7.7M417.4 194.8q-1.2 3.2 -1.5 6.6M435.9 195.7q-.5 4.1 -3.2 7.2M428.9 190.5q-1.5 1.5 -3.6 2.2M404.3 202.2q-1.9 1.9 -4.4 2.8M408.2 199.2q-1.2 2.7 .3 5.2M416.8 190.7q-.2 3.2 -1.5 6.2M405.3 189q-2.4 .2 -4.7 .2M431.7 201q1.1 2.9 .1 5.8M369.9 190.5q2 2.4 5.2 2.9M396.9 196.5q3.6 2.3 7 4.7M439.3 188.4q.1 3.8 3.3 5.7M414 193.6q-1.2 3.9 -2.8 7.7M380.4 188.2q-2 .6 -4.1 .7M410 200.4q-1.2 2.7 .5 5.1M421.7 195q3.9 .2 6.4 3.2M363.3 204.9q-3.6 0 -6.8 1.6M434.6 194.2q-2.7 2.8 -2.3 6.6" stroke="#8e8e8e" stroke-width="4" stroke-linecap="round" fill="none" opacity=".7" filter="url(#bl)"/>
<path d="M424.8 202.9q-2.6 .8 -3.7 3.2M406.7 197.4q-2.3 2.2 -2.7 5.3M400 190.6q1.2 2.7 .1 5.4M373.4 189.5q-3.3 2.5 -7.2 4M415.1 202.9q0 3.2 -1.1 6.1M417.7 202.2q-1.5 2.2 -3.2 4.2M423.6 187.2q-2.8 3 -6.4 4.9M387.9 193q-3.3 2.1 -3.4 6M394.9 187.6q3.8 1.2 6.5 4.1M366.8 192.2q-2.5 3.4 -5.5 6.4M429 188.2q2.1 2.8 .1 5.6M407.7 199.9q-2.4 1.9 -3.3 4.9M388.9 192.8q2.6 2.6 -.8 4M378.6 187.3q-.5 4.5 -4 7.5M367.9 195q-2.5 -.2 -4.3 1.5M400.2 185.6q1.2 3.9 4.9 5.8M390.9 194.2q-1.2 2.9 -1.5 6M431.3 196.5q3.7 2.3 4.9 6.4M410.5 204.2q3.1 1.9 6.6 3M392.7 192.2q-1.5 2.6 -3.6 4.8M419 191.9q2.7 2.5 5.8 4.4M401.5 187.6q-2.3 1.3 -3.4 3.6M400.9 185.9q1.2 4.9 -2.5 8.4M413.3 189.5q3.9 -1.2 7.7 .3M434.8 188.3q-1 2.8 -.6 5.7M369.5 188q2.1 3.7 2 8M420.4 202.6q.2 2.2 -.1 4.5M431.5 191.9q.9 2.5 -.1 5M444.6 189.6q-2 1.6 -2.2 4.2M361.6 196.4q3.8 .3 7.6 .3M427.6 192.5q.6 4.2 4.5 5.8M429.8 186q2.2 .9 3.3 3M383.8 189.5q1.6 2.6 3.7 4.9M364.8 188q.1 4.3 -3.8 6.1M363.2 185.9q3.4 2.2 4.9 6M413.9 190q-4.6 2.5 -3.4 7.6M359.7 191.7q2 2.5 4.7 4.1M447.1 188.9q-2.8 2.7 .8 4.3M360.9 187q-.7 3.1 1.5 5.4M393.9 188q2.8 3.4 7 4.4M433.2 197.4q3.9 1.4 8 2M383.8 190.5q-2.9 2.9 -6.1 5.4M375.6 190q-4.5 -.5 -8.6 1.2M424.2 197q2 1.3 1.6 3.7M408.9 187.9q.6 3.3 -.2 6.6M373.2 190.3q2.8 1.5 5.9 1.1M381.6 188.6q2.8 2.7 2.7 6.6M377.4 193.4q-2.9 2.4 -5.8 4.8M437.6 197.2q-.3 2.6 -2.4 4.1M379.2 187.8q1.2 1.8 1.3 3.9M428.5 197.4q-2.5 3.4 -3.5 7.4M371.2 187.6q2.2 2.9 5.7 3.4M420.5 193.5q-1.8 3.4 -5.2 5.5M395.6 191.6q-.4 3.3 2.7 4.6M429.5 191.9q0 2.5 .7 5M450 187.9q-1.7 1.3 -3 3M443.7 185.9q1.5 2 1.9 4.5M430.3 198.4q-.6 2.5 -.7 5.1M424.3 192q-1.8 1.1 -3.6 2M380.2 201.4q3.1 .1 6 .9M371.7 194.5q-1.6 1.8 -2.9 3.9M374.7 192.9q1.4 2.2 .2 4.5M404.8 193.2q.1 3.9 -3.4 5.5M397.3 190.6q3.6 .6 3.2 4.3M430.3 185.5q1.4 2.9 -.5 5.5M392.8 189.1q-.7 4.2 -3.2 7.6M400.8 192.5q-2 1.3 -4.3 .7M421.6 196.7q-3.3 -.9 -5.9 1.2M363 197.6q2.4 3.6 2.8 8M438.5 195.4q3.1 .6 6.2 .6M439.5 197.5q-5.1 -.4 -7.7 4M387.7 197.5q-.1 3 2.9 3.3M421.9 187.3q-4 2.1 -6 6.1M376.9 186.8q-2.5 .9 -5.1 .2M444.9 191.6q-.1 3.5 -1.9 6.5M383.4 189.9q1.2 2.2 3 3.9M437.6 189.3q1.9 2.2 4.8 2.5M445.7 187.6q2.7 1.4 3.4 4.3M365.6 192.7q2.5 4 1.9 8.7M446.3 189.3q2.2 -1.5 4.4 -.2M426.6 200.2q-2.4 1.5 -5.2 .9M433.8 198.9q1.8 2.7 2 6M393.8 196.5q-4.1 .9 -8.2 2M427.3 194.8q-1.2 3.4 -.7 7M437.5 193.5q-3.5 1.4 -6.3 4M379.1 196.1q3 1.2 4.5 4.1M394.6 190.9q.4 4.1 3.3 7M413.1 192.9q-1 2.5 -1.5 5.1M415.9 201.7q.5 3.9 -.7 7.7M417.4 194.8q-1.2 3.2 -1.5 6.6M435.9 195.7q-.5 4.1 -3.2 7.2M428.9 190.5q-1.5 1.5 -3.6 2.2M404.3 202.2q-1.9 1.9 -4.4 2.8M408.2 199.2q-1.2 2.7 .3 5.2M416.8 190.7q-.2 3.2 -1.5 6.2M405.3 189q-2.4 .2 -4.7 .2M431.7 201q1.1 2.9 .1 5.8M369.9 190.5q2 2.4 5.2 2.9M396.9 196.5q3.6 2.3 7 4.7M439.3 188.4q.1 3.8 3.3 5.7M414 193.6q-1.2 3.9 -2.8 7.7M380.4 188.2q-2 .6 -4.1 .7M410 200.4q-1.2 2.7 .5 5.1M421.7 195q3.9 .2 6.4 3.2M363.3 204.9q-3.6 0 -6.8 1.6M434.6 194.2q-2.7 2.8 -2.3 6.6" stroke="#1c1c1c" stroke-width=".900" stroke-linecap="round" fill="none"/>
</g>
<g>
<rect x="361.8" y="206.7" width="98.5" height="39.3" fill="#4b4b4b"/>
<rect x="361.8" y="206.7" width="98.5" height="3.200" fill="#333"/>
<path d="M365.1 206.9v3M370.6 206.9v3M376.1 206.9v3M381.6 206.9v3M387.1 206.9v3M392.6 206.9v3M398.1 206.9v3M403.6 206.9v3M409.1 206.9v3M414.6 206.9v3M420.1 206.9v3M425.6 206.9v3M431.1 206.9v3M436.6 206.9v3M442.1 206.9v3M447.6 206.9v3M453.1 206.9v3M458.6 206.9v3" stroke="#e4e4e4" stroke-width="2.500"/>
<path d="M411.1 216.3q-2.7 1.7 -3.9 -1.3M391 220.8q2.1 2.2 4.8 3.7M366.4 235.3q2.6 2.1 2.1 5.4M380.9 215.2q.6 3.9 .4 7.9M367.5 210.9q-.4 3.5 -3.9 4M384.6 220.4q-.3 2.3 -2 4M433.1 225.2q2.3 3.1 6.2 3.4M429.4 211.4q-.6 2.4 .7 4.5M424.6 225.3q.7 2.4 1.7 4.7M422.9 231.7q-4.9 -.7 -8.6 2.5M433.6 231.8q-1.2 3.4 -2.4 6.7M377.4 222q-3.8 1.3 -7 3.7M434.6 228.7q1.1 3.8 -.6 7.4M411.5 230.2q1.2 2.2 -.1 4.3M447.2 231.7q-2.8 2 -6.1 3.2M432.9 216.6q-.9 3.8 .7 7.3M369.6 211.8q-4.5 -.6 -6.8 3.3M407.5 223.7q.7 2.9 .6 5.8M420.4 218.6q2.1 3.1 5.1 5.4M416 213.5q3.6 2 4.5 6.1M400.1 228.1q-4.3 -.4 -8.5 .3M441.5 225.7q2.6 1.5 1.8 4.4M421 228.3q-2.4 3.7 -5.7 .7M432.8 225.2q2.1 .7 4.2 1.3M439.6 241.1q-3.1 -1.3 -5.4 1.1M452.4 211q-1.1 3.7 -3.6 6.6M418.4 220.6q-4.2 1.1 -7.8 3.5M434 217.4q2.4 2.5 5.6 4M388.3 212.1q-.8 2.2 -3.1 2.7M425.1 210.7q-4.8 -.3 -8.6 2.6M377.1 229.7q3.1 1.1 5.5 3.3M450.9 219.6q-4.3 1.2 -8.5 2.7M382.5 224.8q3.5 -.6 5.2 2.4M393.9 211.9q-2.2 -1.4 -4 .6M440.5 220.9q-1 3.8 -4.2 6M436.6 226q-3.1 -1.9 -6.7 -1.5M389.3 234.7q-1.8 3.1 .9 5.4M370.5 223.2q2.6 3.1 6.5 4.4M397.2 213.4q2.4 3.1 5.6 .8M428.4 224.7q1 3.6 .6 7.3M368 212.6q2.6 .7 5.2 1.2M411.2 210.2q3.7 1.9 6 5.3M409.2 210.6q.1 2.9 2.5 4.5M428.5 214.3q-1.1 4.3 -.4 8.7M420.3 210.7q3.1 2.9 7.3 2.5M414.1 216.8q-3.3 .3 -6.4 1.3M427.3 232.2q3 1.2 6.1 1.5M365.2 238.7q.7 2.2 1 4.6M416.1 210.7q-.1 4.8 -3.8 7.8M412.9 214.1q.2 3.7 2.2 6.7M367.4 230.5q-3.1 2.6 -4.6 6.4M419.7 226.4q3 3.1 4.5 7.2M385.5 219q3.9 1.7 7.1 4.4M377.9 228.3q2.8 3.4 6.1 6.4M410.2 212.8q-3.9 1.3 -7.9 .5M430.2 218.2q.6 2.3 .8 4.6M390 229.9q0 4.4 3.5 6.9M400 225q-2.4 3.2 -5.4 5.7M457.6 214.3q2 2.9 .8 6.3M380.6 214.5q-3 1.4 -4.6 4.4M419.2 230.3q1 2.9 1.6 5.8M446.5 230.3q-2.1 2.4 -.8 5.4M448.8 235.9q-3.3 -.3 -5.5 2.3M415.6 213.7q1.9 1.8 3.5 3.9M372.7 229.6q.8 3.5 1.3 7.1M403.3 215.4q.9 4.2 -1.6 7.8M443.5 224.9q.2 3.4 -1.8 6.1M442.1 236.6q-3.2 1.3 -5.9 3.4M444.2 218.5q0 4 .1 8M414.3 212.2q.3 2.6 -1.1 4.7M446.5 221.5q4.2 -2.7 7.9 .7M411.6 211q1 3.9 1.4 7.9M436 216q-3.9 1.8 -8.1 3.2M451.5 224.5q-1.7 2.6 -1.1 5.7M385.4 219.6q-.9 2.9 -1.1 5.9M422.1 225.9q1.5 3.2 3.2 6.3M400.5 223.2q-2.8 .5 -2.3 3.3M446.3 224.2q-2.4 3.7 -2.6 8.1M407.4 219.7q-.3 3.2 -3.3 4.1M439.6 220.6q-.3 3.9 .4 7.8M374.6 226.2q-1.2 4.3 -.2 8.6M449.9 230.4q-3 2.7 -3.6 6.6M411.5 214.2q2.7 3.3 6.7 4.7M374 215.1q-1.6 4.6 -6.4 5.4M451.4 229.4q2.9 4.2 7.9 3.8M423.7 213.6q-3.3 2 -2.3 5.7M444.5 226.2q3.1 1.7 1.2 4.7M437.8 233.3q-3.7 -.4 -3.6 3.3M391.8 219.9q-1.7 4 -1.7 8.4M402.2 220q.4 3.4 1.6 6.6M411.7 210.4q-2.6 2 -2.8 5.2M398.2 213.1q3.8 -.6 7.3 1.1M403.8 225.1q3.7 1.6 6.3 4.6M372.8 218.6q-2.1 3.9 -5.3 7M369.6 234.9q.4 4.4 -.2 8.7M452.8 217.3q1.2 3.6 4.9 4.4M444.4 210.6q3 1.9 6.2 3.2M408.6 220.1q-.6 2.8 1.1 5.1M393.5 230.4q.8 2.2 3.1 2.6M394.7 217.3q-.9 3.1 -1 6.3M391.2 236q-1.2 3.3 -4.3 4.7M396.4 215.8q.2 3.2 -2.3 5.1M364.2 238.3q2.8 2.4 6.5 2.6M419.1 212.6q.6 2.2 2.7 3M404.4 210.3q2.8 2.9 5.7 5.8M381.6 220.4q-.2 4.4 .3 8.8M396.3 220.3q-2.7 2 -.3 4.3M376.6 216.8q-3.8 -.1 -2.6 3.5M429.3 225q-3.9 -.3 -7 2.2M435.6 211.4q-1.9 1.6 -3.4 3.6M389.8 219.8q-1.8 2.6 -2.8 5.6M443.3 231.2q-4.5 -.9 -6.8 3M429.1 228.9q-1 4.4 -5.1 6.4M411.6 219.8q-3.6 1.6 -6 4.7M400.9 215q-1.3 3.9 -4 7.1M395.2 213.9q1.7 2.1 1 4.7M368.6 229.8q1.3 2.7 4.2 3.1M363.1 238.3q2.2 1.5 4.9 1.3M422.8 213.3q1.1 4.2 1 8.5M446.8 229.8q-4.2 -1.4 -7.2 1.8M435.2 214.6q-3.1 .4 -5.5 2.3M455.1 221.3q-3.1 2 -5.3 5.1M442.8 223.8q2.9 -1.4 5 1.1M442 211q-2.9 2.1 -2.3 5.6M442 239.7q.1 2.1 -1.3 3.8M419.4 230.3q-.8 3 -.3 6M386 216.8q3.6 0 6.4 2.2M428.2 225.4q2.9 3.1 5.9 6" stroke="#8e8e8e" stroke-width="4" stroke-linecap="round" fill="none" opacity=".7" filter="url(#bl)"/>
<path d="M411.1 216.3q-2.7 1.7 -3.9 -1.3M391 220.8q2.1 2.2 4.8 3.7M366.4 235.3q2.6 2.1 2.1 5.4M380.9 215.2q.6 3.9 .4 7.9M367.5 210.9q-.4 3.5 -3.9 4M384.6 220.4q-.3 2.3 -2 4M433.1 225.2q2.3 3.1 6.2 3.4M429.4 211.4q-.6 2.4 .7 4.5M424.6 225.3q.7 2.4 1.7 4.7M422.9 231.7q-4.9 -.7 -8.6 2.5M433.6 231.8q-1.2 3.4 -2.4 6.7M377.4 222q-3.8 1.3 -7 3.7M434.6 228.7q1.1 3.8 -.6 7.4M411.5 230.2q1.2 2.2 -.1 4.3M447.2 231.7q-2.8 2 -6.1 3.2M432.9 216.6q-.9 3.8 .7 7.3M369.6 211.8q-4.5 -.6 -6.8 3.3M407.5 223.7q.7 2.9 .6 5.8M420.4 218.6q2.1 3.1 5.1 5.4M416 213.5q3.6 2 4.5 6.1M400.1 228.1q-4.3 -.4 -8.5 .3M441.5 225.7q2.6 1.5 1.8 4.4M421 228.3q-2.4 3.7 -5.7 .7M432.8 225.2q2.1 .7 4.2 1.3M439.6 241.1q-3.1 -1.3 -5.4 1.1M452.4 211q-1.1 3.7 -3.6 6.6M418.4 220.6q-4.2 1.1 -7.8 3.5M434 217.4q2.4 2.5 5.6 4M388.3 212.1q-.8 2.2 -3.1 2.7M425.1 210.7q-4.8 -.3 -8.6 2.6M377.1 229.7q3.1 1.1 5.5 3.3M450.9 219.6q-4.3 1.2 -8.5 2.7M382.5 224.8q3.5 -.6 5.2 2.4M393.9 211.9q-2.2 -1.4 -4 .6M440.5 220.9q-1 3.8 -4.2 6M436.6 226q-3.1 -1.9 -6.7 -1.5M389.3 234.7q-1.8 3.1 .9 5.4M370.5 223.2q2.6 3.1 6.5 4.4M397.2 213.4q2.4 3.1 5.6 .8M428.4 224.7q1 3.6 .6 7.3M368 212.6q2.6 .7 5.2 1.2M411.2 210.2q3.7 1.9 6 5.3M409.2 210.6q.1 2.9 2.5 4.5M428.5 214.3q-1.1 4.3 -.4 8.7M420.3 210.7q3.1 2.9 7.3 2.5M414.1 216.8q-3.3 .3 -6.4 1.3M427.3 232.2q3 1.2 6.1 1.5M365.2 238.7q.7 2.2 1 4.6M416.1 210.7q-.1 4.8 -3.8 7.8M412.9 214.1q.2 3.7 2.2 6.7M367.4 230.5q-3.1 2.6 -4.6 6.4M419.7 226.4q3 3.1 4.5 7.2M385.5 219q3.9 1.7 7.1 4.4M377.9 228.3q2.8 3.4 6.1 6.4M410.2 212.8q-3.9 1.3 -7.9 .5M430.2 218.2q.6 2.3 .8 4.6M390 229.9q0 4.4 3.5 6.9M400 225q-2.4 3.2 -5.4 5.7M457.6 214.3q2 2.9 .8 6.3M380.6 214.5q-3 1.4 -4.6 4.4M419.2 230.3q1 2.9 1.6 5.8M446.5 230.3q-2.1 2.4 -.8 5.4M448.8 235.9q-3.3 -.3 -5.5 2.3M415.6 213.7q1.9 1.8 3.5 3.9M372.7 229.6q.8 3.5 1.3 7.1M403.3 215.4q.9 4.2 -1.6 7.8M443.5 224.9q.2 3.4 -1.8 6.1M442.1 236.6q-3.2 1.3 -5.9 3.4M444.2 218.5q0 4 .1 8M414.3 212.2q.3 2.6 -1.1 4.7M446.5 221.5q4.2 -2.7 7.9 .7M411.6 211q1 3.9 1.4 7.9M436 216q-3.9 1.8 -8.1 3.2M451.5 224.5q-1.7 2.6 -1.1 5.7M385.4 219.6q-.9 2.9 -1.1 5.9M422.1 225.9q1.5 3.2 3.2 6.3M400.5 223.2q-2.8 .5 -2.3 3.3M446.3 224.2q-2.4 3.7 -2.6 8.1M407.4 219.7q-.3 3.2 -3.3 4.1M439.6 220.6q-.3 3.9 .4 7.8M374.6 226.2q-1.2 4.3 -.2 8.6M449.9 230.4q-3 2.7 -3.6 6.6M411.5 214.2q2.7 3.3 6.7 4.7M374 215.1q-1.6 4.6 -6.4 5.4M451.4 229.4q2.9 4.2 7.9 3.8M423.7 213.6q-3.3 2 -2.3 5.7M444.5 226.2q3.1 1.7 1.2 4.7M437.8 233.3q-3.7 -.4 -3.6 3.3M391.8 219.9q-1.7 4 -1.7 8.4M402.2 220q.4 3.4 1.6 6.6M411.7 210.4q-2.6 2 -2.8 5.2M398.2 213.1q3.8 -.6 7.3 1.1M403.8 225.1q3.7 1.6 6.3 4.6M372.8 218.6q-2.1 3.9 -5.3 7M369.6 234.9q.4 4.4 -.2 8.7M452.8 217.3q1.2 3.6 4.9 4.4M444.4 210.6q3 1.9 6.2 3.2M408.6 220.1q-.6 2.8 1.1 5.1M393.5 230.4q.8 2.2 3.1 2.6M394.7 217.3q-.9 3.1 -1 6.3M391.2 236q-1.2 3.3 -4.3 4.7M396.4 215.8q.2 3.2 -2.3 5.1M364.2 238.3q2.8 2.4 6.5 2.6M419.1 212.6q.6 2.2 2.7 3M404.4 210.3q2.8 2.9 5.7 5.8M381.6 220.4q-.2 4.4 .3 8.8M396.3 220.3q-2.7 2 -.3 4.3M376.6 216.8q-3.8 -.1 -2.6 3.5M429.3 225q-3.9 -.3 -7 2.2M435.6 211.4q-1.9 1.6 -3.4 3.6M389.8 219.8q-1.8 2.6 -2.8 5.6M443.3 231.2q-4.5 -.9 -6.8 3M429.1 228.9q-1 4.4 -5.1 6.4M411.6 219.8q-3.6 1.6 -6 4.7M400.9 215q-1.3 3.9 -4 7.1M395.2 213.9q1.7 2.1 1 4.7M368.6 229.8q1.3 2.7 4.2 3.1M363.1 238.3q2.2 1.5 4.9 1.3M422.8 213.3q1.1 4.2 1 8.5M446.8 229.8q-4.2 -1.4 -7.2 1.8M435.2 214.6q-3.1 .4 -5.5 2.3M455.1 221.3q-3.1 2 -5.3 5.1M442.8 223.8q2.9 -1.4 5 1.1M442 211q-2.9 2.1 -2.3 5.6M442 239.7q.1 2.1 -1.3 3.8M419.4 230.3q-.8 3 -.3 6M386 216.8q3.6 0 6.4 2.2M428.2 225.4q2.9 3.1 5.9 6" stroke="#1c1c1c" stroke-width=".900" stroke-linecap="round" fill="none"/>
</g>
<g>
<rect x="371.3" y="240.5" width="99" height="39.9" fill="#4b4b4b"/>
<rect x="371.3" y="240.5" width="99" height="3.200" fill="#333"/>
<path d="M374.6 240.7v3M380.1 240.7v3M385.6 240.7v3M391.1 240.7v3M396.6 240.7v3M402.1 240.7v3M407.6 240.7v3M413.1 240.7v3M418.6 240.7v3M424.1 240.7v3M429.6 240.7v3M435.1 240.7v3M440.6 240.7v3M446.1 240.7v3M451.6 240.7v3M457.1 240.7v3M462.6 240.7v3M468.1 240.7v3" stroke="#e4e4e4" stroke-width="2.500"/>
<path d="M414.2 260.6q-3.6 -.5 -6.4 1.7M397.3 260.3q-2.6 .7 -5.2 .8M425.4 254.7q-2.2 3.2 -5.6 5M435.4 258.5q-4 2.2 -6.1 6.3M457.1 245.8q-.9 3.2 -4.2 3.5M375.6 248.6q2.7 1.8 6 1.3M457.9 251.7q-2.2 2.7 -5.5 4M391.4 257.7q3.4 1.6 5.1 5M397.6 259.3q2.3 1.8 2.5 4.7M453.7 244.1q3.7 1.2 6.1 4.3M376.6 262.6q2.6 3.5 4.2 7.5M452.1 256.3q3 2.3 1.3 5.7M439.6 252.2q-1.3 1.9 -3.3 3M437.6 252.6q-.2 2.4 -1.1 4.6M380.3 245.4q-2.1 1.3 -4.3 2.6M467.6 267.1q-.6 3.5 -2.5 6.5M428.8 257q2.4 .6 3.2 2.9M448.2 253.9q-2.3 .3 -3.5 2.3M436.9 258.2q-1.7 1.1 -3.4 2.1M423 250.8q1.8 2.3 -.5 4.2M446.6 263.2q-3.2 -1.1 -6.4 .1M409.3 256.5q-1.5 1.9 -1.1 4.2M424.4 267.4q-3.9 1.6 -7.7 3.5M414.9 246q4.1 1.2 7.4 4.1M433.4 258.1q2.6 3.6 6.7 5.4M396.7 251.5q.1 2.4 1.6 4.3M440.9 256.2q.8 1.9 2.3 3.3M430.8 253.7q.9 4.3 4.5 6.7M461.7 274.4q-2.8 1.3 -5.8 1.5M462.5 259.8q.5 3.6 2.7 6.4M410 255.1q-.1 3.8 .5 7.6M405.2 276.4q-3.1 .3 -6.1 .9M421.3 253.6q.3 3.8 1.8 7.3M388.6 252.3q.2 3.2 1.1 6.4M379.7 253.9q4.5 -.7 7.9 2.3M378 249.6q1.7 4.1 -1.5 7.2M436.7 255.5q1.1 1.8 1.5 3.8M426.8 271.3q2.8 3.5 6 6.6M391.4 257.6q4 0 7.1 2.6M466.8 246.1q-2.1 1.9 -2.2 4.8M435.3 252.1q-1.3 2.6 -4.2 2.4M409.6 271.4q-3.4 2 -5.6 5.4M419 248.1q.2 2.8 .7 5.5M388.7 268.4q2.2 .2 4.4 .8M409.4 268.4q-1 3.9 .7 7.6M425.5 250.8q-.1 2.7 -1.5 5.1M458.1 252.4q-.2 3.6 -2.7 6.1M410.4 268.8q-4 .1 -8 .3M463.4 245q-3.2 .7 -6.3 1.7M426.6 265.3q1.6 1.6 1.8 3.8M375.5 244.3q-.7 2.1 -1.3 4.2M439.5 249.2q-2.4 .8 -4.6 1.9M446.5 249.7q-1.6 3.6 -4.8 1.4M460.2 251.8q-3 0 -5.2 2M448.3 263.8q4 1.2 6 4.9M391.9 248.4q2.8 1.3 5.5 2.6M430.5 245.3q2.8 .3 5 1.9M464.5 252.1q-3 3.4 -4.4 7.7M432.5 251.2q2 3.5 4.7 6.5M421.3 268.8q-.2 3.1 -3.1 4.4M394.7 265.1q-.9 4.1 .5 8.1M415.7 269.5q-2 1.3 -2 3.7M455.1 248.3q1.3 1.9 3.5 2.3M414.6 265q-2.4 1.4 -2.9 4.2M395.1 259.4q1 3.5 1.5 7.1M439.4 259.5q-2.5 .4 -4.4 1.9M419.3 258.1q2.5 3.6 4.9 7.2M449.9 257.6q3.6 .9 7.2 .3M414.9 252.5q.5 2.6 .4 5.3M430.2 256.7q-2 1.5 -3.4 3.7M419.5 255.7q-1.3 2.6 -1.3 5.6M436.7 248q-1.5 1.4 -2.5 3.1M443.4 248.8q.8 2.9 -.7 5.4M427.8 251.9q1.4 1.9 3.2 3.4M413 272.4q1 2.3 1.6 4.6M425.2 248.6q-.6 2.5 1.1 4.3M441.5 248q1.5 2 2 4.4M385 261.8q-2.5 3 -5.2 5.9M444.3 259.7q-.6 3.1 1.6 5.4M441.3 258.7q2.7 1 5.4 2M445.7 260.1q.1 2.6 -1.2 4.8M397.1 261.2q-1.6 3.4 -3.4 6.6M456.9 255.6q1.5 2.9 -1.5 4.2M459.7 265q.2 3.8 -.5 7.6M445.6 261.6q3.1 1.1 6.2 2.1M442.7 260.8q-.9 2.2 .5 4.2M448.3 260.1q-1.4 3.2 -.4 6.6M452.7 250.3q1.1 2.2 3.2 3.5M459.1 249q-2.8 .7 -4.4 3M386 262.3q-4 -.4 -8 -.9M462.8 270.4q-1.3 2.7 -1.7 5.7M420.4 262.1q-.6 3.5 -1.5 7M450.1 250.7q-4.7 -1.3 -7.9 2.3M391.4 244.2q-2.1 1.6 -4.1 3.4M376.9 249.1q-2.4 3.3 -3.7 7.2M383.9 261.6q2.1 2.1 4.9 3M454 268.6q4.3 1.2 8.8 1.6M429 252.2q.7 3.9 4.5 5.3M391 247.1q2.4 1.6 5.2 1.7M387.5 257q-.4 3.3 0 6.7M379.8 256.2q2.6 4 7.2 5.2M401.8 268.9q4.3 -2.6 8.3 .5M446.2 260.1q-2.2 .6 -4.5 .4M398.3 249.7q-2.2 .9 -4.6 .8M391.3 252.6q-2.3 -2 -4.5 .2M390.5 251.9q-1.6 3.1 -3.8 5.9M373.5 262.9q1.2 1.7 2.1 3.5M408.7 261.9q2.4 3.2 5.6 5.6M406.3 261.7q-2.2 1 -2.9 3.3M410.4 252.5q2.7 1.8 5.9 1.7M451.2 247.5q.5 2.7 1.9 5M444.8 250q3.3 1.4 6.9 1.7M460.7 262.7q-3.6 .7 -7.3 .5M438.7 257.5q.4 2.6 0 5.3M412.2 256.2q3.3 1.7 7 2M379.8 248.5q-.1 3.5 -.9 7M458.6 253.3q-3 2.8 -6.1 5.5M392.9 249q-3.3 2.3 -7.1 .7M447.3 260.7q2.8 3.5 5.9 6.7M396.7 248.5q3.4 .5 6.8 .6M447.6 250.1q-1.1 4.2 -4.7 6.7M389.6 246.3q-2.5 .1 -3.7 2.3M394.8 275.1q3.6 1.9 7.7 2M410.7 247.9q2.1 1.8 4.8 2.1M400.6 266.3q2 1.2 2.1 3.6M394.9 253.2q-3 1.1 -5.7 -.6M432 254.8q1.2 2.7 1.6 5.7M432.8 256.8q-2.9 2.9 -4.9 6.4M382 255.6q3.1 1.7 4.7 4.8M394.7 245.2q.4 2.9 2.6 4.8M454.6 257.7q-2.4 -.9 -4.2 .9M379.3 245.4q2.8 .3 5 2.1M401.4 258.2q1.1 3.1 3.2 5.6M379.2 268.1q-1.9 .8 -3.9 1M386 268.2q-2.8 2.7 -6.6 3.5M409.2 255.8q-2.4 .7 -3.2 3.1M417.8 251.6q1.2 3.6 1.5 7.4M421.8 248.5q-3.5 .7 -6.2 2.9M449 262.7q-2 3.1 -4.1 0M399.3 248.8q-1.6 2.7 -2 5.9M464.6 246.7q.3 3.3 -2 5.7M422.3 261.3q-.3 4.1 -2.1 7.8M459.9 266.8q-2.4 1.5 -5.2 .8M441.3 263.8q-2.3 -.1 -4 1.5M389.5 258.3q1.7 3.3 4.8 1.3M415.1 272.8q-3.1 2.6 -7.2 2.9M406 250q2.4 2.1 2.6 5.2M417.7 245.7q1.5 1.9 1.2 4.3M395.6 247.5q2.7 .2 4 2.6M414.1 265.6q.8 2.8 -.1 5.6" stroke="#8e8e8e" stroke-width="4" stroke-linecap="round" fill="none" opacity=".7" filter="url(#bl)"/>
<path d="M414.2 260.6q-3.6 -.5 -6.4 1.7M397.3 260.3q-2.6 .7 -5.2 .8M425.4 254.7q-2.2 3.2 -5.6 5M435.4 258.5q-4 2.2 -6.1 6.3M457.1 245.8q-.9 3.2 -4.2 3.5M375.6 248.6q2.7 1.8 6 1.3M457.9 251.7q-2.2 2.7 -5.5 4M391.4 257.7q3.4 1.6 5.1 5M397.6 259.3q2.3 1.8 2.5 4.7M453.7 244.1q3.7 1.2 6.1 4.3M376.6 262.6q2.6 3.5 4.2 7.5M452.1 256.3q3 2.3 1.3 5.7M439.6 252.2q-1.3 1.9 -3.3 3M437.6 252.6q-.2 2.4 -1.1 4.6M380.3 245.4q-2.1 1.3 -4.3 2.6M467.6 267.1q-.6 3.5 -2.5 6.5M428.8 257q2.4 .6 3.2 2.9M448.2 253.9q-2.3 .3 -3.5 2.3M436.9 258.2q-1.7 1.1 -3.4 2.1M423 250.8q1.8 2.3 -.5 4.2M446.6 263.2q-3.2 -1.1 -6.4 .1M409.3 256.5q-1.5 1.9 -1.1 4.2M424.4 267.4q-3.9 1.6 -7.7 3.5M414.9 246q4.1 1.2 7.4 4.1M433.4 258.1q2.6 3.6 6.7 5.4M396.7 251.5q.1 2.4 1.6 4.3M440.9 256.2q.8 1.9 2.3 3.3M430.8 253.7q.9 4.3 4.5 6.7M461.7 274.4q-2.8 1.3 -5.8 1.5M462.5 259.8q.5 3.6 2.7 6.4M410 255.1q-.1 3.8 .5 7.6M405.2 276.4q-3.1 .3 -6.1 .9M421.3 253.6q.3 3.8 1.8 7.3M388.6 252.3q.2 3.2 1.1 6.4M379.7 253.9q4.5 -.7 7.9 2.3M378 249.6q1.7 4.1 -1.5 7.2M436.7 255.5q1.1 1.8 1.5 3.8M426.8 271.3q2.8 3.5 6 6.6M391.4 257.6q4 0 7.1 2.6M466.8 246.1q-2.1 1.9 -2.2 4.8M435.3 252.1q-1.3 2.6 -4.2 2.4M409.6 271.4q-3.4 2 -5.6 5.4M419 248.1q.2 2.8 .7 5.5M388.7 268.4q2.2 .2 4.4 .8M409.4 268.4q-1 3.9 .7 7.6M425.5 250.8q-.1 2.7 -1.5 5.1M458.1 252.4q-.2 3.6 -2.7 6.1M410.4 268.8q-4 .1 -8 .3M463.4 245q-3.2 .7 -6.3 1.7M426.6 265.3q1.6 1.6 1.8 3.8M375.5 244.3q-.7 2.1 -1.3 4.2M439.5 249.2q-2.4 .8 -4.6 1.9M446.5 249.7q-1.6 3.6 -4.8 1.4M460.2 251.8q-3 0 -5.2 2M448.3 263.8q4 1.2 6 4.9M391.9 248.4q2.8 1.3 5.5 2.6M430.5 245.3q2.8 .3 5 1.9M464.5 252.1q-3 3.4 -4.4 7.7M432.5 251.2q2 3.5 4.7 6.5M421.3 268.8q-.2 3.1 -3.1 4.4M394.7 265.1q-.9 4.1 .5 8.1M415.7 269.5q-2 1.3 -2 3.7M455.1 248.3q1.3 1.9 3.5 2.3M414.6 265q-2.4 1.4 -2.9 4.2M395.1 259.4q1 3.5 1.5 7.1M439.4 259.5q-2.5 .4 -4.4 1.9M419.3 258.1q2.5 3.6 4.9 7.2M449.9 257.6q3.6 .9 7.2 .3M414.9 252.5q.5 2.6 .4 5.3M430.2 256.7q-2 1.5 -3.4 3.7M419.5 255.7q-1.3 2.6 -1.3 5.6M436.7 248q-1.5 1.4 -2.5 3.1M443.4 248.8q.8 2.9 -.7 5.4M427.8 251.9q1.4 1.9 3.2 3.4M413 272.4q1 2.3 1.6 4.6M425.2 248.6q-.6 2.5 1.1 4.3M441.5 248q1.5 2 2 4.4M385 261.8q-2.5 3 -5.2 5.9M444.3 259.7q-.6 3.1 1.6 5.4M441.3 258.7q2.7 1 5.4 2M445.7 260.1q.1 2.6 -1.2 4.8M397.1 261.2q-1.6 3.4 -3.4 6.6M456.9 255.6q1.5 2.9 -1.5 4.2M459.7 265q.2 3.8 -.5 7.6M445.6 261.6q3.1 1.1 6.2 2.1M442.7 260.8q-.9 2.2 .5 4.2M448.3 260.1q-1.4 3.2 -.4 6.6M452.7 250.3q1.1 2.2 3.2 3.5M459.1 249q-2.8 .7 -4.4 3M386 262.3q-4 -.4 -8 -.9M462.8 270.4q-1.3 2.7 -1.7 5.7M420.4 262.1q-.6 3.5 -1.5 7M450.1 250.7q-4.7 -1.3 -7.9 2.3M391.4 244.2q-2.1 1.6 -4.1 3.4M376.9 249.1q-2.4 3.3 -3.7 7.2M383.9 261.6q2.1 2.1 4.9 3M454 268.6q4.3 1.2 8.8 1.6M429 252.2q.7 3.9 4.5 5.3M391 247.1q2.4 1.6 5.2 1.7M387.5 257q-.4 3.3 0 6.7M379.8 256.2q2.6 4 7.2 5.2M401.8 268.9q4.3 -2.6 8.3 .5M446.2 260.1q-2.2 .6 -4.5 .4M398.3 249.7q-2.2 .9 -4.6 .8M391.3 252.6q-2.3 -2 -4.5 .2M390.5 251.9q-1.6 3.1 -3.8 5.9M373.5 262.9q1.2 1.7 2.1 3.5M408.7 261.9q2.4 3.2 5.6 5.6M406.3 261.7q-2.2 1 -2.9 3.3M410.4 252.5q2.7 1.8 5.9 1.7M451.2 247.5q.5 2.7 1.9 5M444.8 250q3.3 1.4 6.9 1.7M460.7 262.7q-3.6 .7 -7.3 .5M438.7 257.5q.4 2.6 0 5.3M412.2 256.2q3.3 1.7 7 2M379.8 248.5q-.1 3.5 -.9 7M458.6 253.3q-3 2.8 -6.1 5.5M392.9 249q-3.3 2.3 -7.1 .7M447.3 260.7q2.8 3.5 5.9 6.7M396.7 248.5q3.4 .5 6.8 .6M447.6 250.1q-1.1 4.2 -4.7 6.7M389.6 246.3q-2.5 .1 -3.7 2.3M394.8 275.1q3.6 1.9 7.7 2M410.7 247.9q2.1 1.8 4.8 2.1M400.6 266.3q2 1.2 2.1 3.6M394.9 253.2q-3 1.1 -5.7 -.6M432 254.8q1.2 2.7 1.6 5.7M432.8 256.8q-2.9 2.9 -4.9 6.4M382 255.6q3.1 1.7 4.7 4.8M394.7 245.2q.4 2.9 2.6 4.8M454.6 257.7q-2.4 -.9 -4.2 .9M379.3 245.4q2.8 .3 5 2.1M401.4 258.2q1.1 3.1 3.2 5.6M379.2 268.1q-1.9 .8 -3.9 1M386 268.2q-2.8 2.7 -6.6 3.5M409.2 255.8q-2.4 .7 -3.2 3.1M417.8 251.6q1.2 3.6 1.5 7.4M421.8 248.5q-3.5 .7 -6.2 2.9M449 262.7q-2 3.1 -4.1 0M399.3 248.8q-1.6 2.7 -2 5.9M464.6 246.7q.3 3.3 -2 5.7M422.3 261.3q-.3 4.1 -2.1 7.8M459.9 266.8q-2.4 1.5 -5.2 .8M441.3 263.8q-2.3 -.1 -4 1.5M389.5 258.3q1.7 3.3 4.8 1.3M415.1 272.8q-3.1 2.6 -7.2 2.9M406 250q2.4 2.1 2.6 5.2M417.7 245.7q1.5 1.9 1.2 4.3M395.6 247.5q2.7 .2 4 2.6M414.1 265.6q.8 2.8 -.1 5.6" stroke="#1c1c1c" stroke-width=".900" stroke-linecap="round" fill="none"/>
</g>
<g>
<rect x="450.3" y="134.8" width="99.3" height="40" fill="#000"/>
<path d="M476.3 139.9q.7 4.3 -1.7 7.8M455 137.8q5 2.9 10.8 2.8M484.2 139.4q-3.8 -1 -7 1.2M544.9 144.9q-.1 3.9 2.8 6.4" stroke="#33e6ff" stroke-width="1.600" stroke-linecap="round" fill="none"/>
<path d="M469.4 137.3q3.4 2.2 5.9 5.4" stroke="#ffa033" stroke-width="1.600" stroke-linecap="round" fill="none"/>
<path d="M499.4 139.5q5.4 -2 10.9 -3.9M523.2 137.3q-3.9 2 -7.7 4.2M530.6 135.1q.5 6.7 -3.3 12.2M521.1 141.3q2.4 3 5 5.9M498.6 142.9q-2.1 3.7 -5.1 6.7M512.4 136.4q-5.1 3.2 -9.8 7M473.1 135.9q1.7 6.4 .7 13M520.5 136.9q-3.1 4.2 -5.6 8.8M526.8 143.8q5.7 .7 11.4 .6M501.7 142.1q-4 5.8 -9.4 10.3M489.1 136q-6.4 1.9 -12.9 3.4" stroke="#7dff3d" stroke-width="1.600" stroke-linecap="round" fill="none"/>
<path d="M455.8 135.4q3.9 1.6 7.3 4.2M533.2 137.1q-1 3.8 .9 7.2M461.9 139.3q-3.7 1.2 -6.9 3.4M473.6 143.6q-2.7 2.3 -5.1 5M465.5 138.3q-.6 4.5 -.3 9.1M535.7 137.8q2 4 4.5 7.7M487.5 139.8q-5.9 -.2 -9.3 4.6M521.1 145.7q-3.4 3.1 -7.6 5.2M479.1 143.4q3.1 3.2 7.3 4.6" stroke="#ffe14d" stroke-width="1.600" stroke-linecap="round" fill="none"/>
<path d="M497 137.4q5.2 2.4 8.4 7.1M506 135.8q4.5 5 9.2 9.8M542.2 135.6q2.6 6.1 5 12.2" stroke="#ff8fd0" stroke-width="1.600" stroke-linecap="round" fill="none"/>
<path d="M509.8 144.1q-4.6 .4 -8 3.5M496.1 150.6q4.4 -.1 7.6 2.8M508.9 145.3q5.2 1.1 9.5 4.2" stroke="#ff4d4d" stroke-width="1.600" stroke-linecap="round" fill="none"/>
<path d="M481 139.6q5 -.1 10 .1M483.5 136.1q-3.7 4.5 -6.8 9.5" stroke="#8a5cff" stroke-width="1.600" stroke-linecap="round" fill="none"/>
<path d="M495.4 137.5q4.1 4 9.2 6.9M478.7 142.5q1.2 4 4.3 6.7M505 136.9q-3.4 5.3 -1.3 11.3M477 136.6q-3.3 4.9 -9.2 4.9" stroke="#6f8cff" stroke-width="1.600" stroke-linecap="round" fill="none"/>
<path d="M503.5 146.8q4.8 .9 7.5 5M493.4 138.7q6.6 1 13.2 2.2M496.1 142.5q6.3 2.2 12.9 .8" stroke="#d9ff66" stroke-width="1.600" stroke-linecap="round" fill="none"/>
<path d="M472.6 135.8q3 6.1 4.1 12.9M502.7 151.1q-4.7 3.4 -10.3 1.8M472.4 140q6.6 1.9 13.4 .5" stroke="#33aaff" stroke-width="1.600" stroke-linecap="round" fill="none"/>
<path d="M486 140.5q-2.4 3.2 -5.2 6.1M463.2 138.3q4.2 3.3 9.4 4.5" stroke="#ff66c4" stroke-width="1.600" stroke-linecap="round" fill="none"/>
<path d="M518.8 138.5q4.5 1 7.4 4.6M463.3 137.5q2.1 3.8 4.9 7M483.5 135.3q-3.7 2.1 -5.5 6M470.2 137.2q2.7 4.8 7.3 7.8" stroke="#5a6cff" stroke-width="1.600" stroke-linecap="round" fill="none"/>
<path d="M508.5 135q-.3 6.8 1.3 13.4" stroke="#3dffb0" stroke-width="1.600" stroke-linecap="round" fill="none"/>
<path d="M466.6 141.4q-.6 4 -4.2 5.8M487.6 144.3q4.2 1.7 4.9 6.1" stroke="#ff3df0" stroke-width="1.600" stroke-linecap="round" fill="none"/>
</g>
<g>
<rect x="459.3" y="154.7" width="98.9" height="39.5" fill="#000"/>
<path d="M467.5 159.5q-1.5 5.4 -5.8 9.1M464 159.3q2.8 2.5 3.5 6.3M473.8 167.5q-6.4 -2.2 -12.3 1.2M496.2 167.7q-.1 3.8 -1.1 7.5M543 158.7q-4.4 -1 -8.2 1.5M487.1 161.1q3.7 5.7 6.5 11.8M507.6 163.5q-4.2 2.1 -8.9 3.2M495.2 164.7q.4 4.4 3.9 7.1M519.8 156.2q-1.6 4.2 -.7 8.5M471.9 161.6q.3 5.2 4.1 8.9" stroke="#ff4d4d" stroke-width="1.600" stroke-linecap="round" fill="none"/>
<path d="M473.8 156.9q4.9 4.6 9 10.1M540.7 168q1.4 4 4.2 7.3M477.2 157.4q-4.9 4.3 -7.7 10.1M472.4 167.3q-4 .5 -6.7 3.4" stroke="#8a5cff" stroke-width="1.600" stroke-linecap="round" fill="none"/>
<path d="M538.3 155.9q.3 4.1 -1.7 7.6M543.6 157q-1.5 4.6 -1 9.4M534.7 160.3q-3.9 2.4 -6.9 6M540.7 162.9q4 4.7 5 10.8M511.2 168.5q-4.6 .5 -8.9 2.1M484.1 167.1q4.2 2.2 7.5 5.6M539.8 159.2q-5.4 4 -10.7 8.3" stroke="#ff66c4" stroke-width="1.600" stroke-linecap="round" fill="none"/>
<path d="M499.9 158.4q5.5 1.8 11.1 3.1M517.7 165q-4 .4 -8.1 .6M493.7 161.2q1.9 6.1 2.6 12.4M501.9 159.6q-.8 3.7 0 7.5M530.9 159.8q-.7 4.1 -1.3 8.1M498.4 164.9q3.6 3.6 8 6.1M548.7 163.2q-3.5 4.9 -9.5 4.8" stroke="#ffe14d" stroke-width="1.600" stroke-linecap="round" fill="none"/>
<path d="M518.8 159.2q-1.4 4.7 -4.1 8.7M533.5 156.1q-5.5 4.1 -11.9 6.4M537.9 161.1q2.6 6.1 5.9 11.8M486.7 168.6q-4.5 -.7 -8.9 .7M541.8 158.8q5.7 3.4 10.2 8.3M529.7 160.9q-3.4 2 -5 5.6M515.5 157.1q-1.4 5.4 -1.4 10.9" stroke="#7dff3d" stroke-width="1.600" stroke-linecap="round" fill="none"/>
<path d="M487.7 157.3q2.3 4 5.3 7.6M482.2 156.3q4 5 8.4 9.6M553 159.1q3 2.5 3.3 6.4M521.3 155q0 6.6 -6.1 9" stroke="#5a6cff" stroke-width="1.600" stroke-linecap="round" fill="none"/>
<path d="M474 169.1q5.1 1.5 10.4 2.3M481.7 159.8q-3.2 4.6 -3.9 10M495.1 171.3q3.8 .8 7.7 .3M476.6 156.2q4.3 4.4 6.4 10.1M548.4 164.5q2.1 5.1 -.9 9.7M543.3 161.9q-1.4 4.7 .2 9.3M520.3 155.4q6.4 2.4 11.1 7.5M523.8 159.3q6 3 12.3 5.6M489.3 163.7q1.1 6 5.2 10.5M530 158.9q7.2 2.2 10.5 9M480 163q4.3 1 8.7 .1M526.5 158.6q1.2 3.9 4.2 6.7M546.3 161.7q-2.4 3.1 -4.5 6.3M553 160q1.3 5.7 .7 11.6" stroke="#6f8cff" stroke-width="1.600" stroke-linecap="round" fill="none"/>
<path d="M546.3 157.8q4.9 1.6 10 2.2M554.3 161.4q-.2 5 .1 9.9M480.8 159.8q3.9 1.7 8.1 1.3M475.7 163.1q2.3 2.9 4.4 6.1M550.8 155.5q-2.7 3 -5.9 5.5M465.2 158.3q1.4 7 5.6 12.8" stroke="#ff3df0" stroke-width="1.600" stroke-linecap="round" fill="none"/>
<path d="M524.8 158q4.8 .6 8.3 4M539.7 158.5q4.8 3.1 9 7.1M473.3 162.3q-.9 3.6 -1.1 7.3M542.5 164.5q-4.1 .8 -8.3 .9M468.4 163q-.1 3.9 -1.1 7.7M545.5 164.9q5.9 2.7 11.3 6.2" stroke="#33e6ff" stroke-width="1.600" stroke-linecap="round" fill="none"/>
<path d="M535.2 157.1q-4.4 1.5 -8 4.6M496.1 165.7q2.4 4.2 2.8 9.1" stroke="#33aaff" stroke-width="1.600" stroke-linecap="round" fill="none"/>
<path d="M541.7 159.4q-.5 5.6 .6 11" stroke="#3dffb0" stroke-width="1.600" stroke-linecap="round" fill="none"/>
<path d="M496.5 156.2q2 5.7 5.2 10.8M475.9 155.4q-6.1 2.4 -11.6 6M510.6 157q5.3 2.4 9.9 5.8M521.2 155.7q7.3 1.7 8.3 9.1M471 156.7q0 3.6 .1 7.1" stroke="#ff8fd0" stroke-width="1.600" stroke-linecap="round" fill="none"/>
<path d="M527.4 159.6q.9 3.8 2.3 7.5M505.7 164q5.2 .1 10.1 1.8M496.9 172.7q-3.6 2.6 -7.5 4.7M497.9 157.6q3.2 5.9 4.1 12.5M492.1 160.3q5.4 4.1 9.8 9.3" stroke="#d9ff66" stroke-width="1.600" stroke-linecap="round" fill="none"/>
<path d="M519.5 157.9q2 4 3.7 8" stroke="#ffa033" stroke-width="1.600" stroke-linecap="round" fill="none"/>
</g>
<g>
<rect x="468.9" y="180" width="99.3" height="38.9" fill="#000"/>
<path d="M548.4 180.9q-2.4 5.8 -2.1 12M565.1 197q-4.9 3.2 -10.3 5.5M522.6 190q-2.4 2.8 -3.1 6.3M546.2 190q-3.8 2 -8 2.4M511.3 199.3q-6.8 1.3 -13.7 1M487.9 195.2q.5 4.4 -3.4 6.4M491.6 193.2q-3.9 3.4 -7.6 7M538.8 187.7q1.8 4.1 .7 8.5M504.5 185.3q2.7 5.2 1.5 10.9" stroke="#33aaff" stroke-width="1.600" stroke-linecap="round" fill="none"/>
<path d="M553 182.1q-3.7 .1 -7.3 -.3M524.9 191.8q4 4.7 9.8 6.8M494.6 180.4q4.2 3 3.8 8.1M524.2 190.9q-4.4 1.7 -8.7 3.6M557 202q4.1 3.3 7.5 7.3M559 199.1q3.9 2.3 8.3 3.3M520.7 187.9q-1.7 3.3 -3.6 6.5M496.5 187.5q1.1 6 2.4 12" stroke="#ff3df0" stroke-width="1.600" stroke-linecap="round" fill="none"/>
<path d="M486.2 195.4q4.1 4.3 7.3 9.3M480.1 191q.1 4.1 -.3 8.2M531 186.2q-1.6 6.6 .7 13.1M505.6 195.7q.4 4.6 .9 9.3M487.9 188.9q6.2 2.8 12.4 5.6M555.1 183.4q3.7 .3 7.4 1.2M532.7 189.9q2.3 3.3 4 7" stroke="#ff4d4d" stroke-width="1.600" stroke-linecap="round" fill="none"/>
<path d="M476.3 188.9q3.4 1 6.9 1.8M525.9 186.4q6 3.6 10.6 8.9M483.2 201.5q5 2.9 10.8 3.4M508 188.3q.4 4.3 4.6 5.5M524.3 185.7q5.8 4.1 7.5 10.9M478.9 194.1q2.9 5.3 6.6 10.1M542.8 188q.3 5.2 1.9 10.1M518.7 182.4q-.2 5.1 -3.3 9.1" stroke="#8a5cff" stroke-width="1.600" stroke-linecap="round" fill="none"/>
<path d="M492.7 182.5q1 6.2 5.6 10.5M545.9 189.4q-3.2 2.9 -7 4.7M533.6 182.6q-4 -.9 -7.1 1.8M485.3 185.4q-4.6 -1.6 -9.3 -.3M560.3 186.1q1.5 6.4 .5 12.9M494.8 187q6.1 .9 12.2 1.5M477 183.1q2.3 3.5 6.4 3.2M498.2 194.7q1.1 5.2 4.1 9.7M483.8 194.5q1.3 4.5 5.5 6.3M547.4 187.3q-4 2 -8.5 2.4M538.1 189.1q-.7 3.8 -1.6 7.6" stroke="#ffa033" stroke-width="1.600" stroke-linecap="round" fill="none"/>
<path d="M479.9 188.9q-3.4 2.1 -6.4 4.7M517.8 192q1.3 3.9 -.6 7.5M544.2 182.6q5.7 1.2 10.2 4.8M481.7 197.2q3.4 1.9 6.4 4.4M556.4 185.9q-.4 6.6 -3 12.7M484.2 180.4q4.2 2.8 8.8 5M561 189.7q2.3 6.4 2.1 13.2" stroke="#5a6cff" stroke-width="1.600" stroke-linecap="round" fill="none"/>
<path d="M513.5 194.8q-3.5 3.5 -1.8 8.2M478.5 181.9q1.4 4.9 1.5 10M555.9 196.6q-1 4.4 -5.2 6.1M567.2 191.5q-3.8 1.8 -7.9 1.6M532.4 184.7q5.8 1.8 11.7 3M485.4 193q.9 4.9 -1.9 9M496.1 187.8q1.3 4 4.3 6.9M530.6 186.6q5.4 2.8 8.3 8.2M535.3 185.6q5 4.8 10.3 9.2" stroke="#d9ff66" stroke-width="1.600" stroke-linecap="round" fill="none"/>
<path d="M558.1 205.4q4.4 1.6 9 1.9M502.4 198q1.7 5.4 5.2 9.9M504.9 181.6q.3 5.1 1.3 10M539.3 180.7q-2.9 3.6 -7.5 3.7M496.8 192.5q-3.5 1 -6.1 3.6M508.7 192.3q-1.7 3.7 -2.3 7.8M523.3 195.7q-4.9 .7 -8.7 3.9M493.6 185.8q3.5 2.1 3.4 6.2" stroke="#6f8cff" stroke-width="1.600" stroke-linecap="round" fill="none"/>
<path d="M563.4 196.3q-4 1.6 -8.1 2.9M536.7 192.6q-3.9 2 -8.2 2.7M516.6 187.8q3.7 2 6.4 5.2" stroke="#7dff3d" stroke-width="1.600" stroke-linecap="round" fill="none"/>
<path d="M475.3 187.3q2.4 2.9 5.4 5.1M500 183.8q.6 6.1 -1 12.1M529.8 183.7q-3 5.3 -6.4 10.4M500 181q5.5 3.6 8.2 9.5M551.5 194.9q6.1 1.1 11.6 4M518.1 196.5q-4.2 2.3 -8.1 5.1M515.4 187.1q4.6 1.3 9.2 2.3M562.8 191.4q-1.3 3.4 -3.6 6.4M483 190.8q-3.7 1.4 -6.9 3.7M543.9 183.8q.7 6.2 .9 12.5" stroke="#ff8fd0" stroke-width="1.600" stroke-linecap="round" fill="none"/>
<path d="M547 182.5q-4.3 5.4 -7.1 11.7M559.7 187.2q.6 6.4 2.4 12.6M505.6 181.5q-2.7 4.7 -6 9M470 181q.8 3.7 3.1 6.8M523.6 181.3q1.7 4.9 3.9 9.6M529.9 182.4q3.9 -.2 7.8 .1M546.9 185.1q1.5 6.5 -.6 12.9M549.4 187.3q-4.5 3 -6.8 7.8" stroke="#ff66c4" stroke-width="1.600" stroke-linecap="round" fill="none"/>
<path d="M563.8 192.8q-.7 5 -2.5 9.8M474.8 185.6q1.4 6.4 3.9 12.5M544.8 188.3q3.2 2.7 5.1 6.4M514.9 185.2q-.6 4.4 1.1 8.5" stroke="#33e6ff" stroke-width="1.600" stroke-linecap="round" fill="none"/>
<path d="M503.3 188.5q.2 5 1.7 9.8M486.7 185.3q4.2 1.1 8 3.1M517 181.6q-6.5 1.9 -13.1 3.5M507.1 195.9q-3.9 1.9 -6.5 5.5M504.9 184.2q-6.1 -.4 -12.2 -1.4M511.8 182.7q1.8 4.8 5 8.8M542.1 181.6q-4.7 1.9 -7.3 6.4M494.1 194.5q-5.3 -1.4 -9.1 2.6" stroke="#3dffb0" stroke-width="1.600" stroke-linecap="round" fill="none"/>
<path d="M493.4 181.3q-2.6 5.5 2.1 9.4M489.1 184.8q-.5 4.1 -1 8.2M537.4 182.7q-6.1 1.4 -12.3 .8M520.1 187.3q.4 4.4 -1 8.6M533.4 184.5q6 .2 11.9 .1M510.8 197.1q-3.3 3.8 -6.1 8" stroke="#ffe14d" stroke-width="1.600" stroke-linecap="round" fill="none"/>
</g>
<g>
<rect x="478.7" y="205.8" width="98.8" height="39.7" fill="#000"/>
<path d="M570.9 223.3q-1.7 5.5 -.7 11.3M525.8 224.4q-4.7 2.1 -7.7 6.3M574.5 218.1q-2.2 5.6 -2.6 11.7M567.8 213.5q3.3 2.8 7.4 4.3M498.8 233.9q5.7 2.9 12 4.4" stroke="#d9ff66" stroke-width="1.600" stroke-linecap="round" fill="none"/>
<path d="M543.5 216.8q-1 4.2 -.9 8.5M517.4 222.8q-2.9 4.6 -8 6.7M546.6 214.7q.9 4.5 .1 9M573.2 224.4q-2.4 3.7 -6.8 4.5M549.7 220.1q-5.7 3 -12.1 4.1M546.3 221.8q-1.6 4.5 -6 6.5M528.1 208.3q2.7 5.2 6.3 9.7M568.1 222.2q2.3 5.5 4.1 11.1M533.3 206.9q-6.4 1.2 -12.8 2.3M529.7 216q6.1 1.4 12.4 2.4M521.5 211.2q-4.2 2.8 -9.1 2.3" stroke="#33aaff" stroke-width="1.600" stroke-linecap="round" fill="none"/>
<path d="M535 216.5q6 .6 10.7 4.5M482.9 217.5q3.6 5.6 7.8 10.7M502.6 225.8q-2.4 5.1 -4.1 10.5M494.4 233.7q-5.5 .5 -10.9 1M541.1 209.4q-4.6 .8 -8.4 3.4M486 223.7q-.6 4.8 -1.2 9.5M518.4 227.4q-1.4 4.3 -4 8.1M520.8 228.6q-5.1 2 -10.5 2.7M524 215.6q-2.9 5.2 -3.1 11.2M520.8 213.7q2.3 6 4.7 11.9M485.4 208q.1 6.7 -1.8 13.1" stroke="#7dff3d" stroke-width="1.600" stroke-linecap="round" fill="none"/>
<path d="M551.4 206.9q3.3 6 9.2 9.6M490.6 221q1.6 3.6 4.9 5.7M536.6 213.3q2.2 6.4 4.9 12.5M502.9 223.3q-4.9 1.7 -10.1 2.8M489.5 214.2q1.1 5.4 -1.9 10.1M486.8 221.7q4.5 2.1 7.6 6M565.8 231.5q-2.5 4.6 -4 9.7M483.5 212q2.5 4.1 7.1 6" stroke="#6f8cff" stroke-width="1.600" stroke-linecap="round" fill="none"/>
<path d="M491.1 223q4.8 2 9.1 4.9M550.5 221.1q-3.7 1.6 -7 3.9M537.5 208.8q4.1 3.1 9 4.4M517.6 213.2q2.3 4.3 -1 7.8M500.8 227.2q3.7 2.4 7.6 4.7M506.2 210.2q-7.5 1.3 -11.1 7.9M536 219.5q-6.8 -.7 -12.3 3.3M502.6 213.7q-.3 4.6 -1.1 9.1M481.9 219.6q-1.8 5.3 -.2 10.6M505.3 213.6q4.1 5 3.7 11.5M493.9 225.9q-5.3 4 -11.2 7.2M503.1 224.2q4.2 3.6 6.1 8.8M504.4 225.7q1.1 6 4.5 11.1M546.9 207.9q-2.2 4.3 -7.1 4.8M504 240q4.1 -2 8.5 -1.4M485.3 212.8q.2 5.2 .5 10.4M562.2 218.5q-3.4 4.3 -3.7 9.8M519 224.8q6.3 .5 12.7 .2" stroke="#5a6cff" stroke-width="1.600" stroke-linecap="round" fill="none"/>
<path d="M509.8 215.6q-.5 4 -2.2 7.7M565.4 226.8q3.6 3.9 6 8.5M501.4 220.8q-3.5 3.2 -2.4 7.8M531.9 206.1q4.8 4.1 11.1 3.2M530.5 219q3.5 4.2 7.7 7.6M519.2 219.4q4.4 4 5.7 9.8M544.8 219.8q3.3 2.5 7.3 3.2M540.6 213.7q2.7 3.9 7.2 5.5M538.4 217.3q3.3 3.6 7.5 6.1M533.8 207.6q.5 6.7 1.3 13.4M537.8 218.3q3.5 5.3 9.5 7.1M525.9 221.1q5.3 3.4 8.8 8.7M509.6 220.8q1.8 5.4 6.1 9.1" stroke="#ffa033" stroke-width="1.600" stroke-linecap="round" fill="none"/>
<path d="M503.6 229.5q-1.8 3.3 -5.4 4.6M494.7 230.4q-5.8 2.5 -10.1 7.1M516.8 224.9q-3 3.7 -5.2 7.9M487.8 228.2q2.6 6.4 8.4 10M489.1 227.5q-3.9 4.3 -8.7 7.5M533 217.9q2.4 4.5 2.6 9.5M486.7 207.8q6.8 0 13.5 .1M557.2 213.2q3.7 2.7 8.2 3.4M549.5 223.3q4.1 1.7 5.4 5.9" stroke="#ff8fd0" stroke-width="1.600" stroke-linecap="round" fill="none"/>
<path d="M549.8 219.7q-5.1 1.4 -10.2 2.7M522.4 214.1q-5.3 1 -8.6 5.3M538.2 221.1q6.3 2.3 13 1.9M541.2 220.5q.1 3.8 -2.4 6.6M538.5 207.3q4.5 3.8 5.7 9.6M530.3 222.4q-7.1 .3 -13 4.1M573.4 232.7q-5.2 1.4 -10.6 .8M489 206.4q4.9 5 11.5 7.2M491.7 219.7q1.7 3.8 4.4 6.8" stroke="#8a5cff" stroke-width="1.600" stroke-linecap="round" fill="none"/>
<path d="M504.5 212.4q6.1 -.7 11.7 2M491.4 210.1q4.9 -.4 9.2 2.2M501.4 210.7q-4.5 5.1 -6.8 11.6M526.8 214.9q-3.4 1.3 -5.9 4M558.9 211.2q5.6 -1.7 11.4 -.3M537.5 213.2q3.1 2.1 6.9 2.2M534.9 209.9q.5 3.6 -.5 7.1M566.5 225.4q3.4 4.2 7.4 8" stroke="#ff66c4" stroke-width="1.600" stroke-linecap="round" fill="none"/>
<path d="M491.8 222.6q-3 4.6 -4.4 10M534.8 220.1q-.5 5 -1 10M574.2 210.8q-3.4 2.7 -7.7 2.7M526 207.1q-2.4 6.3 -8.8 8.2M526.7 209.8q2.3 5.4 7 8.9M480.7 212.8q.7 5.4 1.9 10.7M558.5 206.2q-2 3.7 -.9 7.7M530.5 225.2q4.3 2.8 6.2 7.6M520.4 219.1q-6.1 -2 -12.3 -4.1" stroke="#ff4d4d" stroke-width="1.600" stroke-linecap="round" fill="none"/>
<path d="M572.5 220.1q1.9 3.9 2 8.2M509.9 220.8q2.9 5.8 3.4 12.2M510.8 222.7q2.4 5.2 2.5 11M533.2 213q6.5 2.1 10.8 7.4M549.9 207.9q-3.1 5.6 -9.1 7.5M568.8 211.5q4.5 5.1 6.8 11.5M560.2 228.4q-2.6 3.3 -3.5 7.4M540.5 219.5q-5 -.9 -9.7 .9M540.2 224.1q-6.7 1.8 -13 4.5M504.6 219q1.7 5.7 1.3 11.6" stroke="#ff3df0" stroke-width="1.600" stroke-linecap="round" fill="none"/>
<path d="M546.1 219.5q-4.1 1.5 -7.9 3.8M538.4 222.6q5 -.1 9.8 1M521.1 218.8q5.9 .2 11.4 2.6M490.1 230.2q-1.4 4.3 -4.1 7.9M542 217.8q4.1 3.6 8.6 6.7M559.2 229.3q-4.4 2.7 -9.4 3.6M506.1 223.9q3.9 .7 7.9 1.1" stroke="#33e6ff" stroke-width="1.600" stroke-linecap="round" fill="none"/>
<path d="M545.5 208.5q2.8 4 6.3 7.4M557.3 218.7q-4.7 3.1 -10.3 4.2M576.6 214q-3.9 .5 -7.8 1.6M493.1 213.8q.4 5.5 3.1 10.2M537.5 206.7q-2.2 5.7 -7 9.5M550.2 211.1q-5.5 2.3 -11.5 2" stroke="#3dffb0" stroke-width="1.600" stroke-linecap="round" fill="none"/>
<path d="M497.7 221.8q.7 5.5 3 10.6M515.9 212q-1.8 4.2 -1 8.7M510.9 219.6q1.3 7.2 7.4 11.5M512.7 209.7q-1.5 5.7 -6.2 9.3M573 207.7q-.4 5.6 1.9 10.8M488.3 214.6q-4.6 .4 -7.2 4.3M575.5 219.6q-1.9 5.9 -4.8 11.4M498.6 213.1q-2 2.9 -4 5.8M537.6 215.2q4.5 1.6 8.2 4.7" stroke="#ffe14d" stroke-width="1.600" stroke-linecap="round" fill="none"/>
</g>
<g>
<rect x="490.3" y="239" width="98.8" height="39.5" fill="#000"/>
<path d="M578.2 244.3q5.3 1.7 9.2 5.6M496.8 252.9q5.8 .6 11.5 1.2M535.4 243.9q-4.4 .5 -7.7 3.4M530.7 244.9q2.1 5.5 1.7 11.4M503.2 257.9q1.4 4.5 3.3 8.9M495.7 250.3q.6 3.6 -.7 7.1" stroke="#ffa033" stroke-width="1.600" stroke-linecap="round" fill="none"/>
<path d="M580.6 254.4q1.7 5.9 2.7 11.9M534.4 248.4q-6 3.5 -10.7 8.6M578.3 260.9q1.1 4.3 3.8 7.7M502.8 257q5.7 .6 11.3 1.9M559.5 244q6.2 -.7 12.4 .5M519.2 267.6q1.8 3.5 4.4 6.6" stroke="#3dffb0" stroke-width="1.600" stroke-linecap="round" fill="none"/>
<path d="M504.5 250.1q3.8 1 7.5 2.4M576.5 249.7q-4.5 3.4 -6.1 8.8M554.5 252.4q3 3.3 4.7 7.4M576.2 246.4q-5.7 3.3 -11.6 6.3M573.8 250.9q-4.9 1.1 -9.3 3.3M566.3 249.4q-2.9 2.1 -6.2 3.4M500.3 244.5q1.8 5.3 4.4 10.3" stroke="#ff8fd0" stroke-width="1.600" stroke-linecap="round" fill="none"/>
<path d="M518.6 240.5q3.4 5.5 8.4 9.6M561.4 253.3q6.3 1.6 12.4 3.7M498.2 243.4q1.4 3.9 .7 8M588.2 267.8q-3.2 3.7 -7.6 5.7M494.5 250.1q1.2 5.2 3.2 10.1M515.1 249.7q-5.4 3.1 -8.9 8.3M540.4 269.3q-4.6 .3 -7.9 3.6M536.9 249q.7 4.9 .5 9.8" stroke="#ff66c4" stroke-width="1.600" stroke-linecap="round" fill="none"/>
<path d="M550.2 241.6q1.8 5.3 1.9 10.9M566.1 244.2q-6 3 -10.9 7.5M565.3 240.7q.2 4.5 4.4 6M564.4 245.8q1.9 4.1 2 8.5M568.1 247q2.6 2.8 4.6 6M534.9 251.7q.8 6.3 3.5 12.2M568.6 259q-4.1 2.1 -6.4 6.1M558.4 256.6q3 4.4 7.9 6.5M568.8 244.6q5.4 4.7 6.9 11.7M557.1 248.5q.6 5.8 -.9 11.4M559.6 266.9q-3.8 1.7 -7.9 2.2M555.6 256.4q3.3 3.7 7.8 1.8M574.3 241.4q-5.6 2.2 -11.5 .9M559.9 247q-2.2 4.8 -.2 9.6M521.9 250.4q-1.6 5.2 -4.8 9.5M571.2 251.6q3.3 6.3 3.9 13.4M556.6 257.3q3.1 4.7 3.4 10.3M555.8 253.4q-4.4 -1.1 -7.3 2.3M517.1 241.5q-3.7 2 -8 2M564 244q2.8 3.4 6.2 6.2M553.5 245.6q.3 4.6 2.9 8.4M536.7 249.1q-3.3 3.6 -4.3 8.3M573.1 250q.6 4.8 .8 9.7M562.1 262.5q-4.8 3.1 -8.3 7.6M558.1 257.5q-7.1 1.1 -12.7 5.4M574.3 252.8q-2.5 3.1 -5.9 5.2M565.1 243.1q1.9 4.4 3.2 9.1" stroke="#d9ff66" stroke-width="1.600" stroke-linecap="round" fill="none"/>
<path d="M582.6 257.6q-2.9 2.9 -6.5 4.9M541.9 255.8q-3.5 6.3 -3.4 13.4M526.4 244q-4.3 1.2 -8.7 1M569.6 252.8q2.7 3.1 6.3 4.8M544.7 252q1.7 6.9 7.6 10.7M559.4 242.8q-4 3.4 -8.6 5.6M559.9 261.4q-5.4 .7 -10.1 3.6M559.3 249.5q1.8 5.1 -1.6 9.3M499.5 246.3q-3 6.3 -2.8 13.4M549.9 247.5q-.3 6.2 3.3 11.3M554.4 262.4q-3.5 1.5 -7 2.8" stroke="#ff4d4d" stroke-width="1.600" stroke-linecap="round" fill="none"/>
<path d="M550 245q-3.1 1.9 -6.1 4M536.6 249.6q-5.9 1 -11.8 1.3M515.5 249.7q-2.7 2.6 -5.4 5.2M571.7 252q-.2 4.5 -2.6 8.2M538.6 264q-6.1 2.6 -12.1 5.5M529 251.4q-.7 6.5 -1.7 12.9M536.2 257q5.8 2.6 9.8 7.5M533.8 267.6q-3.3 1.6 -6.9 1.5M580.8 255.2q1.5 3.6 .3 7.4M556.8 258.2q-2.3 4.4 -4.6 8.8" stroke="#ffe14d" stroke-width="1.600" stroke-linecap="round" fill="none"/>
<path d="M535.2 263.9q.9 4.5 -1.8 8.1M500.8 259.1q5.1 2 10.5 2.4M500.1 255q4.2 1.6 8.3 3.6M516.8 241.9q1.4 6.9 1.6 13.9M584.8 244.1q-2.5 3.2 -3.9 7M541.4 241.6q-1.2 4 -1.6 8.1M525.5 251.3q2.5 3.8 5.9 6.8M512.7 263.5q5.7 2 11.7 3.5" stroke="#5a6cff" stroke-width="1.600" stroke-linecap="round" fill="none"/>
<path d="M510.9 242.1q4.4 4.7 8.3 9.8M575.8 246.6q2.8 4.7 7.1 8.1M542.2 260.8q4.6 3.1 9.3 6M493.2 251.6q.6 5 2.8 9.5M535.5 247.1q1 4.7 1.9 9.5M511.5 256.4q-1.5 5.8 -4.3 11.1M569.9 247.4q-2.8 3.6 -6 6.7M533.3 252.9q2.1 4.1 5.3 7.5M503.9 253.7q-2.8 5.2 -5.1 10.7" stroke="#6f8cff" stroke-width="1.600" stroke-linecap="round" fill="none"/>
<path d="M498.1 239.3q-2.9 3.3 -5 7.1M551.1 250.5q-4 .2 -7.2 2.6M539.4 259.8q3.6 4.3 8.2 7.5M584.5 243.4q-1.1 3.5 -2.2 6.9M568.1 240.7q1.3 4.7 4.7 8.3M499.3 240.5q1.2 3.6 .8 7.4M542.4 239.3q5.4 2.6 10.3 6.1M550.1 259.1q3.3 -1.4 6 -3.8M531.9 253.7q-5.2 2.3 -10.7 3.4" stroke="#ff3df0" stroke-width="1.600" stroke-linecap="round" fill="none"/>
<path d="M577.5 245.4q-5.7 4.1 -11.6 7.9M540.3 264q-5.4 1.9 -9.1 6.2M516.1 259.4q3.2 2.2 4.7 5.8M551.3 252.2q5.3 2.3 11.1 1.7M549.9 249.5q-3.4 4 -6.2 8.5M533.3 241.2q2 5.5 4.1 11M515.8 263.2q-.7 4.6 -2 9.1M549.1 244.8q-.3 3.7 1.2 7M577.3 263.1q5.6 3.5 10.7 7.6M540.6 250.2q-.1 5 -.2 10.1" stroke="#8a5cff" stroke-width="1.600" stroke-linecap="round" fill="none"/>
<path d="M520.1 252.5q.2 6.3 2.3 12.2M546.6 246.3q-6 1.6 -11.5 4.7M530.4 250.7q-1.9 5.5 -3.4 11.2M571.2 249.4q-1.7 4.5 .2 8.9M535.7 260.4q-3.9 -1.2 -7.5 .6M501.5 257.1q4.2 -.6 8.2 .7M535.4 246.5q3.6 3.6 4.3 8.6M540.4 258.8q3.3 4.7 2.6 10.4M582.3 254.5q-4.4 3.6 -7.7 8.2" stroke="#33e6ff" stroke-width="1.600" stroke-linecap="round" fill="none"/>
<path d="M513.3 267.7q-3 2.6 -7 2.2M514.5 249.9q3.3 5.4 6.4 10.9M514.2 241.2q-2.4 4.6 -4 9.5M519.7 249.3q4.5 5.3 8.7 10.9M502.5 258.4q-4.6 -.5 -9.2 .3M508.3 240q2.2 3.7 1.1 7.8M504.1 252.4q5.2 -.8 9.9 -3M517.7 266.2q5.3 3.6 10.4 7.5M520.7 247.6q3.9 5.6 8.8 10.4M529.5 260.2q-3.7 4.9 -9 8.1M521.6 260.5q-3.9 .4 -7.8 .3M515.2 246.7q-2.3 5.8 -3.9 11.9M529.4 255.2q.1 4.7 -1.4 9.2M507.6 244.7q-1.9 5.7 -.6 11.6M504.3 244.8q-4.5 3.9 -8.8 8.1M517.2 243.9q1.6 6 3.7 11.7M504.7 247.1q-5.6 1.9 -11.5 1.1M509.7 250.6q1.9 3.8 -.3 7.4M511.9 265.6q-4.7 2.8 -5.2 8.3M526 240q-1.8 3.9 -.4 7.9M526.5 259.3q-6.2 2.6 -12.1 5.8M508 253.7q0 3.9 -1 7.6M517.4 243.3q5.1 4.3 9.8 9.1M507.1 241.3q2.6 4.4 7 7M508.2 258.8q-4.4 2.1 -7.4 5.9M509.6 258.6q-4 -.4 -7.8 1.3M520.8 270q2.9 2.2 6 4.1M504.8 250.6q.8 6.8 0 13.6M509.8 249.6q-3.5 4.8 -7.7 9.2" stroke="#ff7fd0" stroke-width="1.600" stroke-linecap="round" fill="none"/>
<path d="M501.6 255.7q2.4 3.9 2.1 8.4M577.5 254.9q-2.1 3.1 -4.1 6.4M581 240q-3.2 2.9 -7.3 1.9M493.6 248.1q3.6 1.9 7.5 3.1M495.9 257.1q5.8 2.7 11.3 5.9M525 256.5q-4.9 .6 -9.8 1.1" stroke="#7dff3d" stroke-width="1.600" stroke-linecap="round" fill="none"/>
<path d="M583.6 246.8q-2.6 3.6 -6.9 2.7M506.9 248.2q-3.2 1.6 -6.1 3.6M547 244.9q1.3 3.4 3.7 6.2M562.9 255q3.3 3.6 7.5 6M505.5 257.1q-2.8 4.1 -7.6 5.3" stroke="#33aaff" stroke-width="1.600" stroke-linecap="round" fill="none"/>
</g>
<path d="M297.700 318V685" stroke="#9a9a9a" stroke-width=".7"/>
<text x="155" y="326" font-size="8.200" font-weight="bold" font-style="italic" text-anchor="middle">M. bovis</text>
<text x="450.300" y="329" font-size="8.200" font-weight="bold" font-style="italic" text-anchor="middle">M. smegmatis</text>
<text x="3.5" y="335.6" font-size="12" font-weight="bold">d</text>
<text x="3.5" y="437" font-size="12" font-weight="bold">e</text>
<text x="27.3" y="556.5" font-size="12" font-weight="bold">f</text>
<text x="303.5" y="337" font-size="12" font-weight="bold">g</text>
<text x="304.3" y="443" font-size="12" font-weight="bold">h</text>
<text x="329.5" y="555.7" font-size="12" font-weight="bold">i</text>
<clipPath id="c1"><rect x="27.7" y="339.8" width="120.9" height="79.2"/></clipPath>
<rect x="27.7" y="339.8" width="120.9" height="79.2" fill="#fff"/>
<g clip-path="url(#c1)">
<polygon points="32.8,394.5 35.3,394 37.8,393.4 40.3,392.9 42.8,392.3 45.3,391.7 47.8,391.2 50.3,390.6 52.8,390 55.3,389.5 57.8,388.9 60.3,388.3 62.9,387.8 65.4,387.2 67.9,386.6 70.4,386.1 72.9,385.5 75.4,384.9 77.9,384.3 80.4,383.8 82.9,383.2 85.4,382.6 87.9,382.1 90.4,381.5 93,380.9 95.5,380.3 98,379.8 100.5,379.2 103,378.6 105.5,378 108,377.4 110.5,376.9 113,376.3 115.5,375.7 118,375.1 120.5,374.5 123,374 125.6,373.4 128.1,372.8 130.6,372.2 133.1,371.6 135.6,371 138.1,370.5 140.6,369.9 143.1,369.3 145.6,368.7 145.6,401.9 143.1,402.1 140.6,402.2 138.1,402.3 135.6,402.5 133.1,402.6 130.6,402.7 128.1,402.9 125.6,403 123,403.1 120.5,403.3 118,403.4 115.5,403.5 113,403.7 110.5,403.8 108,403.9 105.5,404 103,404.2 100.5,404.3 98,404.4 95.5,404.6 93,404.7 90.4,404.8 87.9,404.9 85.4,405.1 82.9,405.2 80.4,405.3 77.9,405.4 75.4,405.5 72.9,405.7 70.4,405.8 67.9,405.9 65.4,406 62.9,406.1 60.3,406.3 57.8,406.4 55.3,406.5 52.8,406.6 50.3,406.7 47.8,406.8 45.3,406.9 42.8,407.1 40.3,407.2 37.8,407.3 35.3,407.4 32.8,407.5" fill="#a9d9f1" fill-opacity="0.6"/>
<path d="M32.8 386.9l2.5 .2 2.5-1.7 2.5-.5 2.5-.6 2.5-.9 2.5-.6 2.5-.3 2.5-1.4 2.5-.5 2.5-1.5 2.5 .1 2.6-1.7 2.5-.6 2.5-1.9 2.5-.6 2.5-1 2.5-.5 2.5-2.1 2.5-.5 2.5-1.6 2.5-1.5 2.5-.3 2.5-1.1 2.6-.7 2.5-1.1 2.5-.4 2.5-.6 2.5-1.8 2.5-1.3 2.5-.7 2.5-2.1 2.5-1.3 2.5-1 2.5-1.1 2.5-.3 2.5-1.3 2.6-.5 2.5-1.7 2.5-1.7 2.5-1.9 2.5-1 2.5-1 2.5-1.8 2.5-2.8 2.5-1.7" stroke="#ff7f0e" stroke-width="0.5" fill="none" stroke-opacity="0.55" stroke-linejoin="round"/>
<path d="M32.8 390.1l2.5-.4 2.5-1 2.5 .3 2.5-1.8 2.5-.7 2.5-.6 2.5 0 2.5-.8 2.5-1.9 2.5 .6 2.5-.9 2.6-1.1 2.5-1.2 2.5-.4 2.5-1.2 2.5-1 2.5-.9 2.5-.3 2.5-.8 2.5-.9 2.5-1 2.5-1 2.5-.8 2.6-.5 2.5 .1 2.5-2.2 2.5-.4 2.5 .1 2.5-1.7 2.5-1.2 2.5-1.5 2.5-2 2.5-1.1 2.5-1.5 2.5-.1 2.5-.6 2.6-1.2 2.5-1 2.5-.4 2.5-.5 2.5-.7 2.5-1.6 2.5-1.2 2.5-1.2 2.5-1" stroke="#ff7f0e" stroke-width="0.5" fill="none" stroke-opacity="0.55" stroke-linejoin="round"/>
<path d="M32.8 402.3l2.5-.5 2.5-.3 2.5-.5 2.5-.5 2.5-.2 2.5-.2 2.5-.5 2.5-.1 2.5 .2 2.5-.1 2.5-.1 2.6-1 2.5-.1 2.5-.2 2.5-.5 2.5-.6 2.5 .4 2.5-.7 2.5-.7 2.5 .7 2.5-.7 2.5-.2 2.5-.1 2.6-.1 2.5-.6 2.5-.6 2.5-.6 2.5-.4 2.5-.2 2.5-.5 2.5-.2 2.5-.9 2.5-.5 2.5-.5 2.5-1 2.5-.3 2.6-.4 2.5-.3 2.5-.3 2.5-.6 2.5-1.1 2.5 .2 2.5-.1 2.5-.8 2.5 .3" stroke="#2ca02c" stroke-width="0.5" fill="none" stroke-opacity="0.55" stroke-linejoin="round"/>
<path d="M32.8 400.2l2.5-.2 2.5-.5 2.5-.5 2.5 .6 2.5 .1 2.5-.5 2.5 0 2.5 .1 2.5-.6 2.5 .3 2.5-.1 2.6 0 2.5-.6 2.5-.3 2.5-.6 2.5 .5 2.5-.6 2.5 .6 2.5-.5 2.5-.2 2.5-.2 2.5-.5 2.5 .1 2.6-.6 2.5-.8 2.5-.5 2.5-.7 2.5-.2 2.5-.3 2.5-.6 2.5-.2 2.5-.4 2.5 0 2.5-.1 2.5-.4 2.5-.2 2.6 0 2.5-.3 2.5-.8 2.5-.7 2.5-.1 2.5-1 2.5-.5 2.5-.4 2.5-.8" stroke="#d62728" stroke-width="0.5" fill="none" stroke-opacity="0.55" stroke-linejoin="round"/>
<path d="M32.8 400.3l2.5-.2 2.5 0 2.5-1 2.5-.2 2.5-.5 2.5 .3 2.5-1.2 2.5 .2 2.5-.2 2.5 .4 2.5 .2 2.6-.9 2.5-.7 2.5 .2 2.5-1.4 2.5 .5 2.5-.5 2.5-.9 2.5 .1 2.5-.8 2.5-.5 2.5-.4 2.5-.5 2.6-.9 2.5 .5 2.5-.6 2.5 0 2.5-.6 2.5-.3 2.5-.8 2.5 .1 2.5-.6 2.5-.5 2.5-1.4 2.5 0 2.5-1 2.6-.5 2.5-.6 2.5-.4 2.5-.5 2.5-1 2.5-.7 2.5-.6 2.5-.7 2.5-1.1" stroke="#9467bd" stroke-width="0.5" fill="none" stroke-opacity="0.55" stroke-linejoin="round"/>
<path d="M32.8 396.1l2.5-.3 2.5-1.3 2.5-.1 2.5-.3 2.5-1.1 2.5-1.2 2.5-.3 2.5-.2 2.5-.7 2.5 0 2.5-.2 2.6 .4 2.5-1.2 2.5 .1 2.5-.4 2.5-.3 2.5 .1 2.5-.2 2.5-.4 2.5-1 2.5 0 2.5-1.2 2.5 .9 2.6-.7 2.5 .3 2.5-.8 2.5-.3 2.5-.1 2.5 0 2.5-1.6 2.5-1 2.5 0 2.5-.6 2.5-.9 2.5-.4 2.5-.8 2.6-.1 2.5-.8 2.5-1.1 2.5-1.3 2.5-.4 2.5-.9 2.5-.4 2.5 .2 2.5-1" stroke="#8c564b" stroke-width="0.5" fill="none" stroke-opacity="0.55" stroke-linejoin="round"/>
<path d="M32.8 401.7l2.5-.4 2.5 .3 2.5 0 2.5-.6 2.5-.4 2.5-.7 2.5-.3 2.5-.4 2.5-.4 2.5-1 2.5-.2 2.6-.6 2.5-.3 2.5-.3 2.5-1.1 2.5 .6 2.5-.8 2.5-.5 2.5-.4 2.5-.2 2.5-.5 2.5-.4 2.5-.3 2.6-.9 2.5-.3 2.5-1.3 2.5-.9 2.5 .2 2.5-.8 2.5-.9 2.5-.3 2.5-1.2 2.5-.5 2.5-.7 2.5-.9 2.5-.4 2.6 0 2.5-.6 2.5 .2 2.5-.5 2.5-.3 2.5-1.3 2.5-1 2.5-.2 2.5-.2" stroke="#e377c2" stroke-width="0.5" fill="none" stroke-opacity="0.55" stroke-linejoin="round"/>
<path d="M32.8 402.5l2.5-.6 2.5-.5 2.5 .4 2.5-.7 2.5 0 2.5-.2 2.5-.4 2.5-.4 2.5-.1 2.5-.3 2.5-.5 2.6-.2 2.5-.8 2.5-.3 2.5 0 2.5-.6 2.5-.4 2.5-.6 2.5-.6 2.5-.4 2.5-.4 2.5-.4 2.5-.4 2.6 0 2.5-.7 2.5 .1 2.5-.7 2.5-.5 2.5-.2 2.5-.2 2.5-.8 2.5-.5 2.5-.7 2.5-.3 2.5-.3 2.5-.6 2.6-.6 2.5-.3 2.5-.2 2.5-.6 2.5-.7 2.5-.5 2.5-.1 2.5-.2 2.5 0" stroke="#7f7f7f" stroke-width="0.5" fill="none" stroke-opacity="0.55" stroke-linejoin="round"/>
<path d="M32.8 407.4l2.5 0 2.5 0 2.5 0 2.5-.4 2.5 .2 2.5-.6 2.5 0 2.5 .1 2.5-.3 2.5-.3 2.5-.1 2.6-.1 2.5-.1 2.5-.2 2.5-.1 2.5-.1 2.5-.1 2.5 0 2.5 0 2.5-.4 2.5-.1 2.5-.4 2.5 .2 2.6-.5 2.5-.2 2.5-.3 2.5 0 2.5-.4 2.5-.3 2.5-.1 2.5-.3 2.5-.3 2.5-.2 2.5-.3 2.5 0 2.5-.3 2.6-.3 2.5-.5 2.5-.2 2.5 0 2.5-.4 2.5 .1 2.5-.5 2.5-.1 2.5 .1" stroke="#bcbd22" stroke-width="0.5" fill="none" stroke-opacity="0.55" stroke-linejoin="round"/>
<path d="M32.8 394.9l2.5 .5 2.5-1.2 2.5-.2 2.5-.6 2.5 .3 2.5-.7 2.5-.9 2.5 .4 2.5-.5 2.5-.3 2.5-.5 2.6-.4 2.5-.9 2.5-.6 2.5-.7 2.5-.6 2.5-.5 2.5-.9 2.5-1.1 2.5 .2 2.5-.7 2.5-.2 2.5-1.2 2.6-.9 2.5 .5 2.5-1.1 2.5-1 2.5-.1 2.5-.3 2.5-.7 2.5-1 2.5-.8 2.5-.8 2.5-.3 2.5-.8 2.5-.9 2.6-.6 2.5-1.4 2.5-.6 2.5 .3 2.5-1.5 2.5-.5 2.5-1 2.5-1.8 2.5 .3" stroke="#17becf" stroke-width="0.5" fill="none" stroke-opacity="0.55" stroke-linejoin="round"/>
<path d="M32.8 411.1l2.5-.1 2.5-.2 2.5-.2 2.5-.1 2.5 0 2.5-.4 2.5-.2 2.5 0 2.5 0 2.5-.5 2.5 .3 2.6-.3 2.5-.1 2.5-.1 2.5-.3 2.5-.1 2.5-.4 2.5-.3 2.5-.2 2.5-.2 2.5-.1 2.5-.2 2.5-.2 2.6-.1 2.5-.4 2.5-.1 2.5-.5 2.5 0 2.5-.3 2.5-.1 2.5-.3 2.5-.1 2.5-.3 2.5-.3 2.5-.1 2.5-.5 2.6-.4 2.5-.3 2.5-.3 2.5-.4 2.5-.4 2.5-.2 2.5-.2 2.5-.4 2.5-.1" stroke="#1f77b4" stroke-width="0.5" fill="none" stroke-opacity="0.55" stroke-linejoin="round"/>
<path d="M32.8 397.2l2.5-1.6 2.5 .5 2.5-.4 2.5-.7 2.5-.2 2.5 0 2.5-.8 2.5 0 2.5 .3 2.5-.8 2.5-.9 2.6-.1 2.5 .3 2.5-.3 2.5-.7 2.5 .3 2.5-.2 2.5-.9 2.5 0 2.5-1.4 2.5-.4 2.5-.1 2.5-.2 2.6-.8 2.5-1.1 2.5-.8 2.5-.4 2.5 0 2.5-.4 2.5-.2 2.5-.9 2.5-.3 2.5-.5 2.5-.4 2.5-.9 2.5-.6 2.6-.2 2.5-1.9 2.5-.3 2.5-.4 2.5-.5 2.5-1 2.5-1 2.5 0 2.5-.6" stroke="#ff7f0e" stroke-width="0.5" fill="none" stroke-opacity="0.55" stroke-linejoin="round"/>
<path d="M32.8 408.4l2.5-.4 2.5-.4 2.5 0 2.5 .1 2.5-.1 2.5 .1 2.5-.3 2.5-.4 2.5 .1 2.5-.2 2.5-.5 2.6 .1 2.5-.2 2.5-.1 2.5-.4 2.5-.5 2.5 0 2.5-.5 2.5 0 2.5-.5 2.5-.2 2.5-.3 2.5 0 2.6-.1 2.5-.3 2.5-.4 2.5-.3 2.5-.4 2.5-.5 2.5 .1 2.5-.2 2.5 0 2.5-.3 2.5-.2 2.5-.4 2.5 0 2.6-.3 2.5-.3 2.5-.5 2.5-.3 2.5-.4 2.5-.4 2.5-.1 2.5-.5 2.5-.2" stroke="#2ca02c" stroke-width="0.5" fill="none" stroke-opacity="0.55" stroke-linejoin="round"/>
<path d="M32.8 403.8l2.5-.9 2.5-.8 2.5-.4 2.5-.8 2.5-.4 2.5-.1 2.5-.5 2.5-.8 2.5-.7 2.5-.5 2.5-.8 2.6-.5 2.5-.1 2.5-.9 2.5-.4 2.5-.8 2.5-.2 2.5-.6 2.5-.3 2.5-.3 2.5-.4 2.5-.8 2.5-.4 2.6-.8 2.5-.5 2.5-.4 2.5-.3 2.5-1 2.5-.5 2.5-.7 2.5-.6 2.5-.8 2.5-.4 2.5-.7 2.5-.5 2.5-1 2.6-1.1 2.5-.4 2.5-.7 2.5-.8 2.5-.9 2.5-.7 2.5-.7 2.5-.6 2.5-.6" stroke="#d62728" stroke-width="0.5" fill="none" stroke-opacity="0.55" stroke-linejoin="round"/>
<path d="M32.8 404.5l2.5-.1 2.5-.5 2.5 .1 2.5-.5 2.5-.8 2.5-.1 2.5-.7 2.5-.6 2.5-.9 2.5 .1 2.5-.4 2.6-.4 2.5-.3 2.5-.1 2.5-.3 2.5-.3 2.5-.8 2.5-.2 2.5-1 2.5-.9 2.5 0 2.5-.6 2.5-1 2.6-.6 2.5-.7 2.5-.7 2.5-.4 2.5-.4 2.5-1 2.5-.6 2.5-.2 2.5-.6 2.5-.7 2.5-.3 2.5-.6 2.5-.3 2.6-.5 2.5-.8 2.5-.2 2.5-.6 2.5-.7 2.5-.8 2.5-1 2.5-.5 2.5-.9" stroke="#9467bd" stroke-width="0.5" fill="none" stroke-opacity="0.55" stroke-linejoin="round"/>
<path d="M32.8 398.1l2.5 .2 2.5 0 2.5-.2 2.5-.3 2.5-.1 2.5 .3 2.5-.7 2.5-.5 2.5-.1 2.5 .2 2.5-.6 2.6 .4 2.5-.7 2.5-.4 2.5-.2 2.5-.3 2.5 .3 2.5-.7 2.5 .1 2.5-.5 2.5 .1 2.5 0 2.5-1 2.6 0 2.5-.3 2.5-.2 2.5-.7 2.5-.2 2.5-.4 2.5-.7 2.5 .6 2.5-1.1 2.5-.4 2.5-.4 2.5-.6 2.5 0 2.6-1.3 2.5-.5 2.5 .4 2.5-.6 2.5-.5 2.5-.9 2.5-.4 2.5-.5 2.5-.3" stroke="#8c564b" stroke-width="0.5" fill="none" stroke-opacity="0.55" stroke-linejoin="round"/>
<path d="M32.8 414.3l2.5-.1 2.5-.1 2.5-.2 2.5-.1 2.5-.1 2.5 0 2.5-.1 2.5-.1 2.5-.1 2.5 0 2.5-.1 2.6 0 2.5 0 2.5-.2 2.5 0 2.5-.1 2.5 0 2.5-.1 2.5-.1 2.5-.1 2.5-.3 2.5 .1 2.5-.2 2.6 0 2.5-.1 2.5-.1 2.5-.1 2.5 0 2.5-.2 2.5 0 2.5-.3 2.5 .2 2.5 0 2.5-.3 2.5-.1 2.5 0 2.6-.3 2.5-.1 2.5-.2 2.5 0 2.5-.1 2.5-.1 2.5-.1 2.5-.1 2.5-.2" stroke="#e377c2" stroke-width="0.5" fill="none" stroke-opacity="0.55" stroke-linejoin="round"/>
<path d="M32.8 408.3l2.5 0 2.5-.1 2.5-.3 2.5 .1 2.5-.5 2.5 .1 2.5-.3 2.5-.3 2.5-.1 2.5-.1 2.5-.3 2.6-.7 2.5-.1 2.5-.4 2.5-.3 2.5-.2 2.5-.5 2.5 0 2.5-.6 2.5 .1 2.5-.6 2.5-.1 2.5-.5 2.6-.2 2.5-.3 2.5-.5 2.5-.3 2.5 .2 2.5-.2 2.5-.3 2.5-.1 2.5-.5 2.5-.3 2.5 0 2.5-.4 2.5-.3 2.6-.2 2.5-.1 2.5-.2 2.5-.6 2.5-.3 2.5 0 2.5-.6 2.5-.4 2.5-.2" stroke="#7f7f7f" stroke-width="0.5" fill="none" stroke-opacity="0.55" stroke-linejoin="round"/>
<path d="M32.8 405.3l2.5-.2 2.5 0 2.5 0 2.5-.4 2.5-.7 2.5-.6 2.5-.1 2.5-.1 2.5-.7 2.5-.1 2.5-.4 2.6-.2 2.5-.1 2.5-.2 2.5-.3 2.5-.8 2.5-.2 2.5-.5 2.5-.6 2.5-.1 2.5-.2 2.5-.5 2.5-.3 2.6-.3 2.5-.4 2.5-.8 2.5-.4 2.5-.2 2.5-.3 2.5-.8 2.5-.4 2.5 0 2.5-.6 2.5-.1 2.5-.6 2.5-.3 2.6-.3 2.5-.5 2.5-1 2.5-.4 2.5-.5 2.5-.1 2.5-.8 2.5-.2 2.5-.4" stroke="#bcbd22" stroke-width="0.5" fill="none" stroke-opacity="0.55" stroke-linejoin="round"/>
<path d="M32.8 409.1l2.5-.5 2.5 0 2.5-.3 2.5 0 2.5-.1 2.5-.1 2.5-.1 2.5-.1 2.5-.1 2.5-.3 2.5-.2 2.6 0 2.5-.2 2.5-.1 2.5-.4 2.5-.3 2.5-.2 2.5-.2 2.5-.4 2.5-.1 2.5-.2 2.5-.1 2.5-.1 2.6 .1 2.5-.5 2.5 .1 2.5-.7 2.5-.3 2.5 0 2.5-.3 2.5-.3 2.5-.2 2.5-.3 2.5-.5 2.5 .1 2.5-.8 2.6 0 2.5-.1 2.5-.4 2.5-.4 2.5-.2 2.5-.4 2.5-.5 2.5-.2 2.5-.3" stroke="#17becf" stroke-width="0.5" fill="none" stroke-opacity="0.55" stroke-linejoin="round"/>
<path d="M32.8 411l2.5 .1 2.5-.2 2.5-.2 2.5-.3 2.5-.2 2.5 0 2.5-.2 2.5 0 2.5-.2 2.5-.1 2.5-.4 2.6-.1 2.5-.3 2.5 .2 2.5 0 2.5-.1 2.5-.3 2.5-.2 2.5-.2 2.5-.1 2.5-.2 2.5-.3 2.5 0 2.6-.2 2.5-.2 2.5 0 2.5-.4 2.5 0 2.5-.3 2.5 .1 2.5 0 2.5-.1 2.5 0 2.5-.4 2.5-.2 2.5-.4 2.6-.4 2.5 0 2.5-.1 2.5-.2 2.5-.2 2.5-.2 2.5-.1 2.5-.2 2.5-.1" stroke="#1f77b4" stroke-width="0.5" fill="none" stroke-opacity="0.55" stroke-linejoin="round"/>
<path d="M32.8 407.8l2.5-.6 2.5-.2 2.5-.1 2.5 .1 2.5-.5 2.5-.2 2.5-.4 2.5-.6 2.5 0 2.5-.3 2.5-.3 2.6-.6 2.5-.1 2.5-.2 2.5-.4 2.5-.3 2.5-.4 2.5-.4 2.5-.2 2.5-.5 2.5 0 2.5-1 2.5-.3 2.6-.2 2.5-.3 2.5-.2 2.5-.6 2.5-.4 2.5-.6 2.5-.1 2.5-.1 2.5-.7 2.5-.3 2.5-.2 2.5-.5 2.5-.4 2.6-.5 2.5-.2 2.5-.6 2.5-.6 2.5-.1 2.5-.4 2.5-.5 2.5-.2 2.5-1" stroke="#ff7f0e" stroke-width="0.5" fill="none" stroke-opacity="0.55" stroke-linejoin="round"/>
<path d="M32.8 404.5l2.5-.5 2.5 .3 2.5-1.1 2.5-.4 2.5-.1 2.5-.4 2.5-.4 2.5-.7 2.5-.5 2.5-.1 2.5-.4 2.6-.5 2.5-.6 2.5 0 2.5-1 2.5-.1 2.5-.6 2.5-.8 2.5-.5 2.5-.6 2.5 .1 2.5-.4 2.5-.2 2.6-.7 2.5-.3 2.5-.1 2.5-.1 2.5-.7 2.5-.5 2.5-.4 2.5-.2 2.5-.3 2.5-.2 2.5-.8 2.5-.7 2.5-.2 2.6-.7 2.5-.3 2.5 .1 2.5-.5 2.5-.1 2.5-.6 2.5-.5 2.5-.6 2.5-.5" stroke="#2ca02c" stroke-width="0.5" fill="none" stroke-opacity="0.55" stroke-linejoin="round"/>
<path d="M32.8 401.3l2.5-.7 2.5-.6 2.5-.4 2.5-.4 2.5-.8 2.5 .3 2.5-.5 2.5-1.1 2.5-.1 2.5-.4 2.5-1.8 2.6-.4 2.5-.4 2.5-.9 2.5-.5 2.5-.7 2.5-.2 2.5-.3 2.5-.6 2.5-.5 2.5-.6 2.5-.1 2.5-.5 2.6-.6 2.5-.5 2.5-.4 2.5-.6 2.5-.4 2.5-.3 2.5-1.1 2.5-.8 2.5-.7 2.5-.6 2.5-1.3 2.5-.1 2.5-.2 2.6-.6 2.5-.4 2.5-1 2.5-.6 2.5 .1 2.5-.9 2.5-.2 2.5-1.2 2.5-.4" stroke="#d62728" stroke-width="0.5" fill="none" stroke-opacity="0.55" stroke-linejoin="round"/>
<path d="M32.8 399.4l2.5-1.3 2.5-.1 2.5 .3 2.5-.8 2.5 .1 2.5-.8 2.5-.7 2.5-.2 2.5-1.1 2.5-.9 2.5-.4 2.6-1.3 2.5-.3 2.5-.4 2.5 0 2.5-1.1 2.5-.6 2.5-.1 2.5-.6 2.5-1 2.5-.7 2.5-.5 2.5-1.1 2.6 0 2.5-.9 2.5-.4 2.5-.9 2.5-1.1 2.5-.6 2.5 .2 2.5-1.1 2.5-1 2.5-.3 2.5-1.1 2.5 0 2.5-.6 2.6-.9 2.5-.3 2.5-1 2.5-1 2.5-.5 2.5-.8 2.5-1 2.5-1.2 2.5-.5" stroke="#9467bd" stroke-width="0.5" fill="none" stroke-opacity="0.55" stroke-linejoin="round"/>
<path d="M32.8 409.6l2.5 .1 2.5-.1 2.5-.2 2.5-.1 2.5 .2 2.5-.2 2.5-.1 2.5-.3 2.5-.1 2.5 .1 2.5-.1 2.6-.3 2.5-.1 2.5 .1 2.5-.1 2.5-.1 2.5 0 2.5 0 2.5-.2 2.5-.3 2.5 0 2.5 0 2.5 .1 2.6-.1 2.5-.1 2.5-.3 2.5-.2 2.5-.1 2.5 0 2.5-.1 2.5-.3 2.5-.2 2.5-.5 2.5-.2 2.5 0 2.5-.3 2.6-.2 2.5-.1 2.5 0 2.5-.2 2.5-.4 2.5 .1 2.5-.3 2.5-.3 2.5-.1" stroke="#8c564b" stroke-width="0.5" fill="none" stroke-opacity="0.55" stroke-linejoin="round"/>
<path d="M32.8 393.7l2.5-1 2.5-.2 2.5-1 2.5 0 2.5-.6 2.5 0 2.5-1.1 2.5-.9 2.5-.5 2.5-.5 2.5-1.4 2.6-.2 2.5-1.4 2.5-.1 2.5-1.5 2.5-.7 2.5-.6 2.5-.1 2.5-.9 2.5-.3 2.5-1.3 2.5-1.3 2.5-.1 2.6-1.2 2.5-1.1 2.5-.9 2.5-.7 2.5-.8 2.5-1.2 2.5-.2 2.5-1.5 2.5 0 2.5 .3 2.5-.9 2.5 0 2.5-.4 2.6-2.5 2.5-.7 2.5-.1 2.5-1 2.5-1.1 2.5-.7 2.5-.9 2.5-.8 2.5-.7" stroke="#e377c2" stroke-width="0.5" fill="none" stroke-opacity="0.55" stroke-linejoin="round"/>
<path d="M32.8 405l2.5-.1 2.5-.4 2.5 .3 2.5-.9 2.5 0 2.5 .1 2.5-.6 2.5-.6 2.5-.2 2.5-.3 2.5-.1 2.6-.6 2.5-.5 2.5 .2 2.5-.4 2.5-.4 2.5-.3 2.5-.3 2.5-.3 2.5-.2 2.5-.8 2.5 .1 2.5-.5 2.6-.5 2.5-.3 2.5-.6 2.5-.4 2.5-.3 2.5-.6 2.5-.5 2.5-.4 2.5-.2 2.5-.1 2.5-.4 2.5-.5 2.5-.3 2.6-.7 2.5-.3 2.5-.7 2.5-.6 2.5-.7 2.5-.5 2.5-.7 2.5 0 2.5-.4" stroke="#7f7f7f" stroke-width="0.5" fill="none" stroke-opacity="0.55" stroke-linejoin="round"/>
<path d="M32.8 402.2l2.5 .7 2.5-.2 2.5 0 2.5-.7 2.5 .1 2.5-.4 2.5-.9 2.5 .1 2.5-.4 2.5-.8 2.5 .4 2.6-1 2.5 .1 2.5-.2 2.5-.2 2.5-.3 2.5-.5 2.5 .4 2.5-.6 2.5-.2 2.5-1.1 2.5-.5 2.5-.3 2.6-.4 2.5-.6 2.5 .5 2.5-.8 2.5-.6 2.5 .1 2.5-.6 2.5-.6 2.5 0 2.5-.8 2.5-1 2.5 .2 2.5-.3 2.6-.2 2.5-.8 2.5-.6 2.5-1.3 2.5-.4 2.5 .2 2.5-1.5 2.5-.5 2.5-.4" stroke="#bcbd22" stroke-width="0.5" fill="none" stroke-opacity="0.55" stroke-linejoin="round"/>
<path d="M32.8 397.6l2.5-.6 2.5 0 2.5-.4 2.5-.6 2.5-.5 2.5-.3 2.5 0 2.5-1.5 2.5 .1 2.5-.9 2.5 .3 2.6-.8 2.5-.1 2.5-.3 2.5-.3 2.5-.5 2.5-1.3 2.5-.3 2.5 .2 2.5-.8 2.5 .3 2.5-.2 2.5-1.1 2.6-1.1 2.5-.9 2.5-.5 2.5-.5 2.5-1.1 2.5-.5 2.5 .2 2.5-1.5 2.5-.9 2.5-.5 2.5-.8 2.5-.3 2.5-.6 2.6-.2 2.5-.5 2.5-1 2.5-.1 2.5-1.1 2.5-.3 2.5-1.2 2.5-.5 2.5-1.5" stroke="#17becf" stroke-width="0.5" fill="none" stroke-opacity="0.55" stroke-linejoin="round"/>
<path d="M32.8 405.8l2.5-.5 2.5-.4 2.5-.3 2.5 .2 2.5-.5 2.5-.3 2.5-.6 2.5-.4 2.5 0 2.5-.2 2.5-.3 2.6-.2 2.5-.9 2.5 0 2.5-.4 2.5-.4 2.5-.2 2.5-1.3 2.5 .2 2.5-.6 2.5-.2 2.5-.3 2.5-.3 2.6-.2 2.5-.2 2.5-.4 2.5-.5 2.5 .3 2.5-.3 2.5-.5 2.5-.3 2.5-.2 2.5 .1 2.5-1.1 2.5-.3 2.5-.2 2.6-.6 2.5-.4 2.5-.6 2.5-.4 2.5-.5 2.5-.3 2.5-.2 2.5-.6 2.5-.3" stroke="#1f77b4" stroke-width="0.5" fill="none" stroke-opacity="0.55" stroke-linejoin="round"/>
<path d="M32.8 410.8l2.5-.2 2.5 0 2.5-.2 2.5-.1 2.5-.3 2.5-.2 2.5-.1 2.5-.4 2.5 0 2.5-.1 2.5-.5 2.6-.5 2.5 0 2.5-.1 2.5-.2 2.5-.4 2.5 0 2.5-.3 2.5-.1 2.5-.4 2.5-.2 2.5-.3 2.5-.4 2.6-.4 2.5-.1 2.5-.3 2.5-.2 2.5-.3 2.5-.4 2.5-.2 2.5-.5 2.5-.1 2.5-.2 2.5-.1 2.5-.3 2.5-.3 2.6-.3 2.5-.1 2.5-.4 2.5-.1 2.5-.1 2.5 0 2.5-.4 2.5-.2 2.5-.4" stroke="#ff7f0e" stroke-width="0.5" fill="none" stroke-opacity="0.55" stroke-linejoin="round"/>
<path d="M32.8 406.4l2.5-.4 2.5 .2 2.5-.3 2.5 .3 2.5-.1 2.5-.2 2.5-.4 2.5-.6 2.5-.6 2.5 0 2.5-1 2.6-.1 2.5-.3 2.5-.3 2.5 .1 2.5-.4 2.5-.3 2.5-.5 2.5-.1 2.5-.4 2.5-.3 2.5 .2 2.5-.8 2.6 .1 2.5-.3 2.5-.3 2.5 .1 2.5-.5 2.5-.6 2.5-.1 2.5-.6 2.5-.1 2.5-.4 2.5-.3 2.5 .1 2.5-.3 2.6-.5 2.5-.2 2.5-.5 2.5 .1 2.5-.4 2.5-.6 2.5-.2 2.5-.3 2.5-.1" stroke="#2ca02c" stroke-width="0.5" fill="none" stroke-opacity="0.55" stroke-linejoin="round"/>
<path d="M32.8 405.3l2.5-.5 2.5-.5 2.5-.1 2.5-.8 2.5 .2 2.5-.4 2.5 .2 2.5-.4 2.5-1 2.5 0 2.5-.2 2.6 .2 2.5-.4 2.5-.2 2.5-.1 2.5-.5 2.5-.4 2.5-.4 2.5-.1 2.5-.5 2.5-.4 2.5-.1 2.5-.6 2.6-.3 2.5-.4 2.5-.4 2.5-.6 2.5-.2 2.5-.2 2.5-.3 2.5-.5 2.5-.1 2.5-.4 2.5-.4 2.5-.8 2.5 .1 2.6 0 2.5-.7 2.5-.4 2.5-.6 2.5-.5 2.5-.1 2.5-.5 2.5-.3 2.5-.5" stroke="#d62728" stroke-width="0.5" fill="none" stroke-opacity="0.55" stroke-linejoin="round"/>
<path d="M32.8 405.6l2.5-.4 2.5-.4 2.5-.3 2.5 .1 2.5-.6 2.5 0 2.5 .3 2.5-.2 2.5-.4 2.5-.3 2.5 0 2.6-.5 2.5 .1 2.5-.7 2.5-.1 2.5-.7 2.5-.2 2.5-.1 2.5-.4 2.5-.5 2.5-.2 2.5-.1 2.5-.4 2.6-.6 2.5-.3 2.5-.3 2.5-.7 2.5-.4 2.5-.5 2.5-1 2.5-.5 2.5-.7 2.5-.6 2.5-.4 2.5-.7 2.5-.4 2.6-.5 2.5-.1 2.5-.7 2.5-.3 2.5-.6 2.5-.3 2.5-.2 2.5-.3 2.5-1.2" stroke="#9467bd" stroke-width="0.5" fill="none" stroke-opacity="0.55" stroke-linejoin="round"/>
<path d="M32.8 405.9l2.5-.2 2.5-.2 2.5 0 2.5-.4 2.5 .2 2.5-.1 2.5 0 2.5-.9 2.5 0 2.5 .1 2.5-.3 2.6-.6 2.5 0 2.5-.1 2.5-.2 2.5-.4 2.5 .2 2.5-.2 2.5 .1 2.5-.9 2.5-.3 2.5-.3 2.5-.3 2.6-.5 2.5-.2 2.5 0 2.5-.6 2.5 .2 2.5-.5 2.5-.3 2.5-.5 2.5-.3 2.5-.2 2.5-.6 2.5-.4 2.5-.2 2.6-.5 2.5-.4 2.5-.5 2.5-.3 2.5-.2 2.5 0 2.5-.3 2.5-.3 2.5-.3" stroke="#8c564b" stroke-width="0.5" fill="none" stroke-opacity="0.55" stroke-linejoin="round"/>
<path d="M32.8 398.2l2.5-.5 2.5-.7 2.5-.5 2.5 .1 2.5-1.2 2.5 .5 2.5-.6 2.5 .3 2.5-.3 2.5-.6 2.5 .2 2.6-.7 2.5-.4 2.5-.1 2.5-.5 2.5 .2 2.5-.3 2.5 .5 2.5-.9 2.5-.4 2.5-.4 2.5-.3 2.5-.1 2.6 0 2.5-.8 2.5-.5 2.5-.5 2.5 .4 2.5-1.3 2.5-.7 2.5-.2 2.5-1 2.5-.1 2.5 .1 2.5-1.2 2.5-.7 2.6-1.1 2.5 0 2.5-.3 2.5-.1 2.5-1.4 2.5-.8 2.5-.7 2.5-.4 2.5-1.1" stroke="#e377c2" stroke-width="0.5" fill="none" stroke-opacity="0.55" stroke-linejoin="round"/>
<path d="M32.8 414.4l2.5 0 2.5-.1 2.5-.1 2.5 .1 2.5-.2 2.5-.1 2.5 0 2.5-.2 2.5 0 2.5-.1 2.5 0 2.6-.1 2.5-.2 2.5 0 2.5-.2 2.5 0 2.5-.1 2.5 .1 2.5-.1 2.5-.1 2.5-.1 2.5-.1 2.5 0 2.6-.2 2.5 0 2.5-.1 2.5-.1 2.5 0 2.5-.1 2.5 0 2.5-.2 2.5 0 2.5-.1 2.5-.2 2.5 0 2.5-.2 2.6-.1 2.5 0 2.5-.2 2.5 .1 2.5-.2 2.5-.2 2.5 0 2.5-.1 2.5-.2" stroke="#7f7f7f" stroke-width="0.5" fill="none" stroke-opacity="0.55" stroke-linejoin="round"/>
<path d="M32.8 405.9l2.5 0 2.5-.3 2.5-.7 2.5 .1 2.5-.6 2.5 .1 2.5-1.1 2.5 .4 2.5-.4 2.5-.1 2.5-.3 2.6-.6 2.5 .2 2.5 .3 2.5-.3 2.5-.2 2.5-.1 2.5-.2 2.5-.7 2.5-.6 2.5-.3 2.5-.6 2.5-.1 2.6-.1 2.5 0 2.5-1 2.5 .2 2.5-.6 2.5-.3 2.5-.2 2.5-.4 2.5-.5 2.5-.4 2.5-.3 2.5-.4 2.5-.2 2.6-.6 2.5-.4 2.5-.3 2.5 .1 2.5-.6 2.5-.4 2.5 .3 2.5-.9 2.5 .1" stroke="#bcbd22" stroke-width="0.5" fill="none" stroke-opacity="0.55" stroke-linejoin="round"/>
<path d="M32.8 404l2.5 .4 2.5 .1 2.5-.8 2.5-.1 2.5-.3 2.5-.5 2.5-.3 2.5-.4 2.5-.1 2.5-.4 2.5 0 2.6 .1 2.5 .1 2.5-.4 2.5 .1 2.5-.2 2.5-.2 2.5-.4 2.5 .1 2.5-.2 2.5-.3 2.5-.5 2.5-.2 2.6-.3 2.5-.7 2.5-.5 2.5 .2 2.5 .1 2.5-.2 2.5-1 2.5 .1 2.5-.7 2.5-.5 2.5 .1 2.5-.7 2.5-.2 2.6-.4 2.5 .1 2.5-.4 2.5-.2 2.5 .1 2.5-.4 2.5 0 2.5-.7 2.5 .2" stroke="#17becf" stroke-width="0.5" fill="none" stroke-opacity="0.55" stroke-linejoin="round"/>
<path d="M32.8 407.5l2.5-.2 2.5-.5 2.5-.3 2.5 0 2.5 .3 2.5-.5 2.5-.2 2.5 0 2.5-.4 2.5-.2 2.5-.5 2.6 .3 2.5-.4 2.5-.3 2.5-.2 2.5 0 2.5-.4 2.5-.4 2.5-.1 2.5-.3 2.5-.5 2.5-.3 2.5-.2 2.6-.3 2.5-.3 2.5-.2 2.5-.5 2.5-.1 2.5-.8 2.5 .2 2.5 .1 2.5-.5 2.5-.1 2.5-.4 2.5-.4 2.5-.3 2.6-.1 2.5-.3 2.5-.2 2.5-.5 2.5-.6 2.5-.3 2.5-.2 2.5-.5 2.5 0" stroke="#1f77b4" stroke-width="0.5" fill="none" stroke-opacity="0.55" stroke-linejoin="round"/>
<path d="M32.8 396.2l2.5 .5 2.5-.6 2.5-.6 2.5-.8 2.5 .6 2.5-1.1 2.5-.1 2.5-.3 2.5 .6 2.5-.5 2.5 .2 2.6 .4 2.5 .2 2.5-.5 2.5-.2 2.5 .2 2.5-.7 2.5-.4 2.5-1.1 2.5-.4 2.5-.9 2.5-.6 2.5-.2 2.6-.2 2.5-.1 2.5-.8 2.5-.2 2.5-.5 2.5-.4 2.5-1 2.5-.8 2.5-.9 2.5-.8 2.5-.3 2.5 .1 2.5-1.2 2.6-.8 2.5-.3 2.5-.2 2.5-1.4 2.5-.1 2.5-.3 2.5-1 2.5-1.3 2.5-.2" stroke="#ff7f0e" stroke-width="0.5" fill="none" stroke-opacity="0.55" stroke-linejoin="round"/>
<path d="M32.8 410.1l2.5-.1 2.5 0 2.5-.6 2.5 0 2.5-.1 2.5 0 2.5-.1 2.5 0 2.5-.2 2.5 .1 2.5-.4 2.6-.1 2.5-.2 2.5-.2 2.5 0 2.5-.3 2.5-.3 2.5-.1 2.5-.2 2.5-.3 2.5-.3 2.5 0 2.5-.2 2.6-.2 2.5-.2 2.5-.4 2.5 0 2.5-.4 2.5-.2 2.5-.2 2.5 0 2.5-.1 2.5 0 2.5-.2 2.5-.3 2.5-.1 2.6-.4 2.5-.3 2.5-.1 2.5-.1 2.5 0 2.5-.2 2.5-.4 2.5-.4 2.5-.3" stroke="#2ca02c" stroke-width="0.5" fill="none" stroke-opacity="0.55" stroke-linejoin="round"/>
<path d="M32.8 407.1l2.5-.7 2.5-.1 2.5-.5 2.5-.1 2.5-.1 2.5-.5 2.5-.3 2.5-.1 2.5-.2 2.5-.2 2.5-.1 2.6-.5 2.5-.8 2.5-.5 2.5-.6 2.5-.3 2.5-.5 2.5-.3 2.5-.4 2.5-.3 2.5-.3 2.5-.2 2.5-.5 2.6-.5 2.5-.4 2.5-.2 2.5-.4 2.5-.9 2.5-.2 2.5 .1 2.5-.6 2.5-.5 2.5-.4 2.5-.6 2.5 .1 2.5-.6 2.6-.6 2.5-.6 2.5-.5 2.5-.3 2.5-.5 2.5-.7 2.5-.6 2.5-.3 2.5-.5" stroke="#d62728" stroke-width="0.5" fill="none" stroke-opacity="0.55" stroke-linejoin="round"/>
<path d="M32.8 402.4l2.5-.4 2.5-.3 2.5-.2 2.5-.5 2.5 0 2.5-.9 2.5 .2 2.5-.3 2.5 .2 2.5-1 2.5 .2 2.6-.8 2.5-.2 2.5-.8 2.5-.1 2.5-.1 2.5-.1 2.5-.5 2.5-.5 2.5-.2 2.5-.3 2.5-.3 2.5-.2 2.6-.7 2.5 .3 2.5 0 2.5-1.2 2.5-.4 2.5-.3 2.5-.2 2.5-.8 2.5-.2 2.5-.6 2.5-.2 2.5-.7 2.5-.2 2.6-.7 2.5-.4 2.5-.5 2.5-.9 2.5-.8 2.5 0 2.5-.4 2.5-.4 2.5-.6" stroke="#9467bd" stroke-width="0.5" fill="none" stroke-opacity="0.55" stroke-linejoin="round"/>
<path d="M32.8 398.6l2.5-.8 2.5-.6 2.5-.3 2.5-.6 2.5-.7 2.5 .6 2.5-.4 2.5-.5 2.5 0 2.5-1.2 2.5 .6 2.6-1 2.5-.6 2.5-.8 2.5-.8 2.5-.5 2.5-.5 2.5-.8 2.5-.1 2.5-1.6 2.5-.1 2.5-1.2 2.5-.5 2.6-.5 2.5-.6 2.5-.4 2.5-1.2 2.5-.5 2.5-1.2 2.5-.5 2.5-.8 2.5-.6 2.5-1.1 2.5 .1 2.5-1.1 2.5-.7 2.6-.8 2.5-1 2.5-.3 2.5-1.1 2.5-1 2.5-.4 2.5-1 2.5-.1 2.5-.6" stroke="#8c564b" stroke-width="0.5" fill="none" stroke-opacity="0.55" stroke-linejoin="round"/>
<path d="M32.8 404.8l2.5-.2 2.5-.4 2.5-.3 2.5-.9 2.5-.2 2.5 0 2.5-.3 2.5-.2 2.5-.2 2.5 0 2.5-.4 2.6-.6 2.5-.1 2.5-.5 2.5-.1 2.5-.3 2.5-.3 2.5-.4 2.5-.3 2.5-.2 2.5-.3 2.5-.3 2.5-.2 2.6-.3 2.5-.5 2.5-.5 2.5-.2 2.5-.6 2.5-.3 2.5-.3 2.5-.7 2.5-.5 2.5-.3 2.5-.5 2.5-.2 2.5-.1 2.6-.6 2.5-.5 2.5-.2 2.5-1 2.5-.2 2.5-.7 2.5 .1 2.5-.7 2.5-.3" stroke="#e377c2" stroke-width="0.5" fill="none" stroke-opacity="0.55" stroke-linejoin="round"/>
<path d="M32.8 398.7l2.5-.9 2.5-.6 2.5 .2 2.5 .1 2.5-.3 2.5 .3 2.5 .3 2.5-.3 2.5-.8 2.5 0 2.5 0 2.6-.6 2.5-.3 2.5-.2 2.5-.6 2.5-.5 2.5-.2 2.5-.5 2.5 0 2.5-.3 2.5-.8 2.5-.3 2.5-.6 2.6-.3 2.5-.5 2.5-.7 2.5 .4 2.5-1 2.5-.3 2.5-.2 2.5-.2 2.5-1 2.5-.1 2.5-.1 2.5-.2 2.5-1.2 2.6-.4 2.5-.2 2.5-.3 2.5-.5 2.5-.3 2.5-.5 2.5-.5 2.5-.1 2.5-1.6" stroke="#7f7f7f" stroke-width="0.5" fill="none" stroke-opacity="0.55" stroke-linejoin="round"/>
<path d="M32.8 397.8l2.5 .2 2.5 .5 2.5-1 2.5 0 2.5-.2 2.5-.3 2.5-.7 2.5-.2 2.5-.9 2.5-1.1 2.5-.8 2.6-.9 2.5 .2 2.5-.4 2.5-.7 2.5-.1 2.5-.3 2.5-.4 2.5-.7 2.5-.9 2.5-.4 2.5 .1 2.5-.7 2.6-1.5 2.5-.1 2.5-.9 2.5-.7 2.5-.6 2.5-.5 2.5-.2 2.5-.3 2.5-.2 2.5 0 2.5-.6 2.5-1.2 2.5-1 2.6-.4 2.5-1.1 2.5-.2 2.5-.6 2.5-.3 2.5-1.3 2.5-.1 2.5-.8 2.5-.1" stroke="#bcbd22" stroke-width="0.5" fill="none" stroke-opacity="0.55" stroke-linejoin="round"/>
<path d="M32.8 397.9l2.5-.7 2.5-.1 2.5-.3 2.5-.6 2.5 .3 2.5-.3 2.5-1.1 2.5-.4 2.5-.4 2.5-.3 2.5-1.5 2.6 .7 2.5-.4 2.5-.8 2.5-.5 2.5-.1 2.5-.8 2.5-.5 2.5 .1 2.5-.3 2.5-.8 2.5 0 2.5-1.2 2.6-.6 2.5-1 2.5-.3 2.5-.5 2.5-.1 2.5-.7 2.5-.5 2.5-.9 2.5-.2 2.5-.7 2.5-.3 2.5-.1 2.5-.4 2.6-.1 2.5-1.2 2.5-.3 2.5-.8 2.5-1.2 2.5-.7 2.5-1 2.5-.2 2.5-1.1" stroke="#17becf" stroke-width="0.5" fill="none" stroke-opacity="0.55" stroke-linejoin="round"/>
<path d="M32.8 394.8l2.5-.3 2.5-.6 2.5-.5 2.5-.5 2.5 .2 2.5-.8 2.5-.5 2.5-1.1 2.5-.2 2.5-.8 2.5-.5 2.6 .1 2.5-1.2 2.5-.2 2.5-1.2 2.5 .5 2.5-.2 2.5-.8 2.5-1.2 2.5-.7 2.5 .2 2.5-.9 2.5-.6 2.6-.7 2.5-.2 2.5-.3 2.5-.8 2.5-.6 2.5-.7 2.5 .2 2.5-.7 2.5-1 2.5-.7 2.5-.4 2.5-.5 2.5-1.1 2.6-.3 2.5-.7 2.5-.3 2.5-.6 2.5-.7 2.5-.7 2.5-1 2.5-1.6 2.5-.6" stroke="#1f77b4" stroke-width="0.5" fill="none" stroke-opacity="0.55" stroke-linejoin="round"/>
<path d="M32.8 404.1l2.5-.4 2.5-.1 2.5-.1 2.5-.7 2.5-.2 2.5-.3 2.5-.2 2.5-.4 2.5-.7 2.5-.1 2.5-.9 2.6-.4 2.5-.5 2.5-.5 2.5-.4 2.5-.4 2.5-.2 2.5-.9 2.5-.3 2.5-.6 2.5-.7 2.5 0 2.5-.3 2.6-.6 2.5-.4 2.5-1 2.5-.3 2.5-.7 2.5-.3 2.5-.1 2.5-.7 2.5-.3 2.5-.4 2.5-.2 2.5-.4 2.5-.2 2.6-.7 2.5 0 2.5-.9 2.5-.6 2.5-.9 2.5 .1 2.5-.4 2.5-.5 2.5-.7" stroke="#ff7f0e" stroke-width="0.5" fill="none" stroke-opacity="0.55" stroke-linejoin="round"/>
<path d="M32.8 406l2.5-.1 2.5-.4 2.5-.1 2.5-.4 2.5-.7 2.5-.4 2.5-.5 2.5-.4 2.5-.7 2.5-.2 2.5 0 2.6-.4 2.5 .1 2.5-.4 2.5-.6 2.5-.7 2.5-.5 2.5-.2 2.5-.5 2.5-.7 2.5-.6 2.5 0 2.5-.4 2.6-.3 2.5-.6 2.5-.4 2.5-.3 2.5-.5 2.5 .1 2.5-1.2 2.5 .1 2.5-.4 2.5-.1 2.5-.8 2.5-.8 2.5-.4 2.6-.1 2.5-.2 2.5-.9 2.5-.6 2.5-.4 2.5-.2 2.5-.6 2.5-.6 2.5-.5" stroke="#2ca02c" stroke-width="0.5" fill="none" stroke-opacity="0.55" stroke-linejoin="round"/>
<path d="M32.8 396.5l2.5-.5 2.5-.2 2.5-.6 2.5 .3 2.5-1 2.5-.4 2.5-.1 2.5-.3 2.5-.4 2.5-.1 2.5-.8 2.6-.3 2.5-.5 2.5 .1 2.5-.6 2.5-.9 2.5-.2 2.5 .1 2.5-.9 2.5-.7 2.5-.4 2.5-.6 2.5-.5 2.6-1 2.5-.8 2.5 .4 2.5-.9 2.5-.7 2.5 .2 2.5-.7 2.5-.9 2.5-.2 2.5-.3 2.5-.5 2.5-1 2.5 .8 2.6-1.5 2.5 0 2.5-.7 2.5-1.2 2.5-1.1 2.5 .1 2.5-.7 2.5-.5 2.5-.5" stroke="#d62728" stroke-width="0.5" fill="none" stroke-opacity="0.55" stroke-linejoin="round"/>
<path d="M32.8 408l2.5 .3 2.5-.9 2.5-.1 2.5-.2 2.5-.2 2.5-.3 2.5 0 2.5 .1 2.5-.1 2.5-.4 2.5-.2 2.6-.1 2.5-.1 2.5-.6 2.5 .3 2.5-.2 2.5-.2 2.5-.1 2.5-.2 2.5-.5 2.5 .1 2.5-.5 2.5-.2 2.6-.2 2.5-.1 2.5-.3 2.5 0 2.5-.6 2.5 .1 2.5-.3 2.5-.1 2.5 0 2.5-.3 2.5-.4 2.5-.1 2.5-.1 2.6-.1 2.5 0 2.5-.5 2.5-.5 2.5-.3 2.5-.2 2.5-.5 2.5-.2 2.5 0" stroke="#9467bd" stroke-width="0.5" fill="none" stroke-opacity="0.55" stroke-linejoin="round"/>
<path d="M32.8 400.8l2.5-.5 2.5 .3 2.5-.4 2.5-.8 2.5-.5 2.5-.3 2.5-.5 2.5-.2 2.5-.4 2.5-.3 2.5 .4 2.6-.4 2.5-.4 2.5-.2 2.5-.2 2.5-.8 2.5-.1 2.5 0 2.5-.8 2.5-.9 2.5-.3 2.5-.1 2.5-1 2.6 .2 2.5-.1 2.5-.2 2.5-.6 2.5 .1 2.5-.7 2.5 0 2.5-.4 2.5 .1 2.5-.5 2.5-.5 2.5-.7 2.5 .2 2.6-.5 2.5-.1 2.5-.6 2.5-.1 2.5-.2 2.5-.2 2.5-1.1 2.5 .2 2.5-.7" stroke="#8c564b" stroke-width="0.5" fill="none" stroke-opacity="0.55" stroke-linejoin="round"/>
<path d="M32.8 400.4l2.5-.1 2.5-.5 2.5-.1 2.5 0 2.5-.4 2.5-1.1 2.5 .2 2.5-.7 2.5-.5 2.5-.6 2.5-.6 2.6-.1 2.5-.3 2.5-.2 2.5-.5 2.5-.1 2.5-.8 2.5 .1 2.5-.8 2.5 .1 2.5-.6 2.5-.1 2.5-.5 2.6-.5 2.5-.7 2.5-.3 2.5-.7 2.5-.8 2.5-.4 2.5-.4 2.5-.9 2.5-.6 2.5-.7 2.5-.2 2.5-.2 2.5 .1 2.6-1 2.5-.1 2.5-.3 2.5-1.1 2.5-.1 2.5-.8 2.5-.2 2.5-1 2.5 0" stroke="#e377c2" stroke-width="0.5" fill="none" stroke-opacity="0.55" stroke-linejoin="round"/>
<path d="M32.8 405l2.5-.3 2.5 .1 2.5-.4 2.5-.2 2.5-.1 2.5-.1 2.5-.5 2.5-.3 2.5-.8 2.5 0 2.5-1 2.6-.3 2.5-.4 2.5-.5 2.5-.7 2.5-.4 2.5-.1 2.5-.7 2.5 .1 2.5-.9 2.5-.3 2.5-.6 2.5-.6 2.6-.1 2.5-.6 2.5-.3 2.5-.5 2.5-.8 2.5-.2 2.5-.6 2.5-.6 2.5-.3 2.5-.7 2.5-.4 2.5-.5 2.5-1 2.6-.2 2.5-.6 2.5-.7 2.5-.1 2.5-1.1 2.5-.5 2.5-.4 2.5-.2 2.5-.9" stroke="#7f7f7f" stroke-width="0.5" fill="none" stroke-opacity="0.55" stroke-linejoin="round"/>
<path d="M32.8 408.8l2.5-.4 2.5-.2 2.5 0 2.5-.4 2.5-.1 2.5-.1 2.5 .1 2.5-.5 2.5 .1 2.5-.1 2.5 0 2.6-.4 2.5 .2 2.5-.2 2.5 0 2.5 0 2.5-.7 2.5-.2 2.5-.1 2.5-.2 2.5-.2 2.5-.1 2.5 0 2.6-.2 2.5-.2 2.5-.1 2.5-.1 2.5-.1 2.5-.2 2.5-.4 2.5-.5 2.5-.1 2.5 .1 2.5-.1 2.5-.4 2.5-.2 2.6-.1 2.5-.2 2.5 0 2.5-.4 2.5 0 2.5-.2 2.5-.6 2.5-.1 2.5-.3" stroke="#bcbd22" stroke-width="0.5" fill="none" stroke-opacity="0.55" stroke-linejoin="round"/>
<path d="M32.8 398l2.5-.2 2.5 .2 2.5-.5 2.5-.5 2.5-.6 2.5-.3 2.5-.1 2.5-1 2.5 0 2.5 0 2.5-.4 2.6-.6 2.5-.2 2.5-.3 2.5-.3 2.5-.3 2.5 0 2.5-.7 2.5-1.3 2.5-.3 2.5-.5 2.5-.6 2.5 .1 2.6-1.1 2.5-.8 2.5 .2 2.5-.8 2.5 0 2.5-.8 2.5-.3 2.5-.2 2.5-.8 2.5 .1 2.5-.9 2.5-.2 2.5-.8 2.6-.7 2.5-.2 2.5-1 2.5-.5 2.5-.3 2.5-1.2 2.5 0 2.5-1.1 2.5-.9" stroke="#17becf" stroke-width="0.5" fill="none" stroke-opacity="0.55" stroke-linejoin="round"/>
<path d="M32.8 405.1l2.5-.2 2.5-.7 2.5 .2 2.5-.3 2.5-.7 2.5-.4 2.5-.4 2.5 0 2.5-.5 2.5 .1 2.5-.3 2.6-.1 2.5-.2 2.5-.2 2.5-.7 2.5 .3 2.5-.5 2.5-.2 2.5-.3 2.5-.2 2.5-.5 2.5-.7 2.5-.1 2.6-.3 2.5-.1 2.5-.4 2.5-.4 2.5-.6 2.5-.6 2.5-.1 2.5-.7 2.5-.4 2.5-.7 2.5-.7 2.5-.2 2.5-.7 2.6-.1 2.5-.1 2.5-.8 2.5-.4 2.5-.5 2.5-.2 2.5-.9 2.5-.5 2.5-.4" stroke="#1f77b4" stroke-width="0.5" fill="none" stroke-opacity="0.55" stroke-linejoin="round"/>
<path d="M32.8 406.4l2.5-.7 2.5 .4 2.5-.3 2.5-.5 2.5-.2 2.5 .2 2.5 0 2.5-.4 2.5-.3 2.5-.1 2.5 0 2.6-.1 2.5-.5 2.5-.1 2.5 .1 2.5-.3 2.5-.2 2.5-.3 2.5-.3 2.5-.3 2.5-.4 2.5 0 2.5-.1 2.6-.3 2.5-.3 2.5-.1 2.5-.3 2.5 0 2.5-.1 2.5-.4 2.5-.3 2.5-.3 2.5-.6 2.5-.2 2.5-.5 2.5 0 2.6-.6 2.5-.3 2.5-.2 2.5-.6 2.5-.1 2.5-.5 2.5-.2 2.5-.7 2.5-.2" stroke="#ff7f0e" stroke-width="0.5" fill="none" stroke-opacity="0.55" stroke-linejoin="round"/>
<path d="M32.8 400.9l2.5-.8 2.5-.1 2.5-.2 2.5 .3 2.5-.4 2.5-.2 2.5-.1 2.5-.9 2.5-.3 2.5 0 2.5-.4 2.6-1.3 2.5-.3 2.5-.8 2.5 .6 2.5-.5 2.5-.6 2.5-.7 2.5-.6 2.5-.9 2.5-.5 2.5-.4 2.5 0 2.6-1.2 2.5-.5 2.5-.5 2.5-.7 2.5-1.1 2.5-.7 2.5-.2 2.5-.6 2.5-.8 2.5-.3 2.5-.6 2.5-.2 2.5-.7 2.6-.2 2.5-.6 2.5-.9 2.5-.3 2.5-1.1 2.5-.4 2.5-.5 2.5-.8 2.5-.4" stroke="#2ca02c" stroke-width="0.5" fill="none" stroke-opacity="0.55" stroke-linejoin="round"/>
<path d="M32.8 399l2.5-.9 2.5 .3 2.5-1 2.5 .4 2.5-.6 2.5-.2 2.5-.6 2.5-.1 2.5-.4 2.5-.1 2.5-.4 2.6-.2 2.5-.3 2.5-.1 2.5 .3 2.5-.9 2.5 .1 2.5-.3 2.5-.2 2.5 0 2.5-.8 2.5-.2 2.5-.5 2.6-.1 2.5-.7 2.5-.6 2.5-.2 2.5-1.1 2.5-.8 2.5-.7 2.5-.3 2.5-1.2 2.5-.6 2.5-.2 2.5-1.4 2.5-.4 2.6-.7 2.5-.5 2.5-.4 2.5-.5 2.5-.1 2.5-.9 2.5-.4 2.5-.9 2.5-.9" stroke="#d62728" stroke-width="0.5" fill="none" stroke-opacity="0.55" stroke-linejoin="round"/>
<path d="M32.8 402.5l2.5-.2 2.5-.5 2.5-.4 2.5 .2 2.5-.2 2.5-.3 2.5-.4 2.5-.3 2.5 .1 2.5-.5 2.5-.8 2.6-.5 2.5-.8 2.5 .3 2.5-.9 2.5-.6 2.5-.5 2.5-.1 2.5-1 2.5-.2 2.5-.5 2.5-.3 2.5-.5 2.6-.1 2.5-.7 2.5-.1 2.5-.5 2.5-.7 2.5-.3 2.5-.5 2.5-.6 2.5-.5 2.5-.4 2.5-.4 2.5-.3 2.5-.4 2.6-.6 2.5-.3 2.5 .1 2.5-.6 2.5-.9 2.5-.2 2.5-.7 2.5-.2 2.5-.9" stroke="#9467bd" stroke-width="0.5" fill="none" stroke-opacity="0.55" stroke-linejoin="round"/>
<path d="M32.8 399.9l2.5 .2 2.5 .1 2.5 .4 2.5-.8 2.5-.4 2.5 0 2.5-.7 2.5-.7 2.5 0 2.5 0 2.5-.9 2.6-.8 2.5 .1 2.5-1.4 2.5-.9 2.5 .1 2.5-.7 2.5 .8 2.5-1 2.5-.4 2.5-.8 2.5-.1 2.5-.1 2.6-.9 2.5 .2 2.5-.7 2.5-.4 2.5-.9 2.5-.2 2.5-.9 2.5-.2 2.5-.3 2.5-1.1 2.5-.7 2.5-1.2 2.5-.4 2.6-.5 2.5-.7 2.5-.1 2.5-.6 2.5-.5 2.5-.6 2.5-1 2.5 .2 2.5-1.2" stroke="#8c564b" stroke-width="0.5" fill="none" stroke-opacity="0.55" stroke-linejoin="round"/>
<path d="M32.8 396.9l2.5-.7 2.5-.4 2.5 .2 2.5-.4 2.5-.6 2.5-.2 2.5-.9 2.5 0 2.5-.9 2.5-.7 2.5-.2 2.6-1.3 2.5-.4 2.5-.9 2.5-.4 2.5-1.1 2.5-.3 2.5-.1 2.5-.6 2.5-1 2.5 .2 2.5-1.8 2.5 .4 2.6-.3 2.5-1.1 2.5-.7 2.5-.6 2.5-.6 2.5-.8 2.5-.6 2.5-1.2 2.5 .4 2.5-1.3 2.5-1.1 2.5-.1 2.5-.7 2.6-1.3 2.5-.5 2.5-.8 2.5-.2 2.5-1 2.5 .1 2.5-1 2.5-.4 2.5-1.7" stroke="#e377c2" stroke-width="0.5" fill="none" stroke-opacity="0.55" stroke-linejoin="round"/>
<path d="M32.8 401.1l2.5-.1 2.5 .5 2.5-1.2 2.5-.1 2.5-.4 2.5-.1 2.5-.3 2.5-.7 2.5-.5 2.5 .2 2.5-.5 2.6-.6 2.5-.4 2.5-.6 2.5-.6 2.5-.6 2.5-.2 2.5-.2 2.5-.4 2.5-.1 2.5-.7 2.5 .2 2.5-.2 2.6-.9 2.5-.9 2.5-.4 2.5 .1 2.5-.9 2.5-.4 2.5-.4 2.5-.3 2.5-1 2.5-.2 2.5-.9 2.5-.7 2.5 .2 2.6-.9 2.5-1.3 2.5 0 2.5-.7 2.5-.2 2.5-.4 2.5-.4 2.5-.8 2.5-.8" stroke="#7f7f7f" stroke-width="0.5" fill="none" stroke-opacity="0.55" stroke-linejoin="round"/>
<path d="M32.8 392.8l2.5 .3 2.5-.3 2.5-.7 2.5-.4 2.5-.5 2.5-1.1 2.5 .2 2.5-.9 2.5-.2 2.5-.7 2.5 0 2.6-.3 2.5-.3 2.5-.8 2.5-.5 2.5-.8 2.5-.4 2.5-.6 2.5-1 2.5-1.2 2.5-.5 2.5-.6 2.5 .2 2.6-.9 2.5 .2 2.5-1.5 2.5 .1 2.5-1.1 2.5-.4 2.5 .4 2.5-1.1 2.5-.9 2.5-.6 2.5-1.1 2.5-.8 2.5-.8 2.6-.4 2.5-.6 2.5-.5 2.5-.3 2.5-.7 2.5-.2 2.5-.9 2.5 .1 2.5-.3" stroke="#bcbd22" stroke-width="0.5" fill="none" stroke-opacity="0.55" stroke-linejoin="round"/>
<path d="M32.8 408.3l2.5-.1 2.5-.4 2.5-.4 2.5-.1 2.5-.2 2.5-.4 2.5-.1 2.5-.7 2.5 0 2.5-.3 2.5-.3 2.6-.4 2.5-.3 2.5-.1 2.5 0 2.5-.8 2.5-.3 2.5-.2 2.5-.4 2.5-.6 2.5-.5 2.5-.1 2.5-.7 2.6-.3 2.5-.3 2.5 0 2.5-.3 2.5-.4 2.5-.2 2.5-.2 2.5-.6 2.5-.2 2.5-.1 2.5-.3 2.5-.3 2.5-.3 2.6-.9 2.5-.4 2.5-.4 2.5-.5 2.5-.3 2.5-.3 2.5-.4 2.5-.1 2.5-.6" stroke="#17becf" stroke-width="0.5" fill="none" stroke-opacity="0.55" stroke-linejoin="round"/>
<path d="M32.8 407.8l2.5-.5 2.5-.2 2.5-.2 2.5-.3 2.5-.1 2.5-.2 2.5-.2 2.5-.2 2.5-.4 2.5-.2 2.5-.1 2.6-.4 2.5-.2 2.5-.3 2.5-.4 2.5-.1 2.5 0 2.5-.2 2.5 0 2.5-.3 2.5-.5 2.5-.1 2.5-.1 2.6-.2 2.5-.4 2.5-.5 2.5-.1 2.5-.1 2.5-.4 2.5-.2 2.5-.1 2.5-.5 2.5-.1 2.5-.2 2.5-.5 2.5-.3 2.6-.5 2.5 .2 2.5-.1 2.5-.5 2.5-.3 2.5-.1 2.5-.7 2.5-.6 2.5-.3" stroke="#1f77b4" stroke-width="0.5" fill="none" stroke-opacity="0.55" stroke-linejoin="round"/>
<path d="M32.8 400.7l2.5-.3 2.5-.2 2.5-.9 2.5-.9 2.5-.2 2.5-.9 2.5-.4 2.5-.8 2.5-.4 2.5 0 2.5-.7 2.6-.4 2.5-.2 2.5-1.1 2.5-.6 2.5-.6 2.5-1 2.5-1.4 2.5-.6 2.5-.7 2.5-.6 2.5-.3 2.5-.4 2.6-.5 2.5-1 2.5-.6 2.5-.7 2.5-.7 2.5-.7 2.5 .1 2.5-.7 2.5-.8 2.5-1.1 2.5 .5 2.5-.4 2.5-.6 2.6-.5 2.5-1.1 2.5-.4 2.5-.7 2.5-.5 2.5-.5 2.5-1.2 2.5-.5 2.5-.8" stroke="#ff7f0e" stroke-width="0.5" fill="none" stroke-opacity="0.55" stroke-linejoin="round"/>
<path d="M32.8 403.1l2.5-.3 2.5-.2 2.5-.5 2.5-.4 2.5-.2 2.5-.3 2.5-.2 2.5-.7 2.5-.2 2.5 0 2.5-.2 2.6 .2 2.5-.4 2.5-.9 2.5-.3 2.5-.1 2.5-.2 2.5-.3 2.5-.7 2.5-.4 2.5-.3 2.5-1 2.5-.5 2.6-.4 2.5-.4 2.5-.3 2.5-.5 2.5-.4 2.5-.3 2.5-.8 2.5-.3 2.5-.7 2.5-.7 2.5-.3 2.5-.7 2.5 0 2.6-.6 2.5-.4 2.5-.3 2.5-.9 2.5-.5 2.5-.3 2.5-.7 2.5-.8 2.5 .3" stroke="#2ca02c" stroke-width="0.5" fill="none" stroke-opacity="0.55" stroke-linejoin="round"/>
<path d="M32.8 403.1l2.5-.5 2.5-.7 2.5-.2 2.5-.3 2.5-.3 2.5 .1 2.5-1 2.5-.2 2.5-.2 2.5-.6 2.5-.4 2.6-.3 2.5-.3 2.5 .2 2.5-.7 2.5-.1 2.5-1.1 2.5 .3 2.5-.8 2.5-1 2.5-.1 2.5 .2 2.5-.6 2.6-.6 2.5-.5 2.5 .2 2.5-.2 2.5 0 2.5-1 2.5-.8 2.5-.1 2.5-1 2.5 .2 2.5-.7 2.5-.6 2.5-.3 2.6-.6 2.5-.3 2.5-.4 2.5-.8 2.5-.3 2.5-.8 2.5-.5 2.5-.1 2.5-.9" stroke="#d62728" stroke-width="0.5" fill="none" stroke-opacity="0.55" stroke-linejoin="round"/>
<path d="M32.8 409.8l2.5 0 2.5-.2 2.5-.3 2.5 .3 2.5-.3 2.5 0 2.5 0 2.5-.1 2.5-.1 2.5-.3 2.5 .4 2.6-.3 2.5-.5 2.5 0 2.5 0 2.5 .1 2.5-.3 2.5-.4 2.5 0 2.5 0 2.5-.3 2.5 0 2.5-.2 2.6-.4 2.5-.1 2.5-.1 2.5-.3 2.5 0 2.5-.3 2.5 .1 2.5-.2 2.5-.3 2.5-.2 2.5-.5 2.5 .1 2.5 0 2.6-.2 2.5 0 2.5-.4 2.5-.2 2.5-.3 2.5-.4 2.5-.2 2.5-.3 2.5 .1" stroke="#9467bd" stroke-width="0.5" fill="none" stroke-opacity="0.55" stroke-linejoin="round"/>
<path d="M32.8 410.4l2.5 0 2.5-.1 2.5-.2 2.5 0 2.5-.2 2.5 .3 2.5-.3 2.5-.3 2.5-.2 2.5-.1 2.5-.3 2.6-.2 2.5-.2 2.5-.4 2.5 .1 2.5-.2 2.5 .1 2.5-.3 2.5-.1 2.5-.1 2.5-.2 2.5 0 2.5-.3 2.6-.2 2.5-.2 2.5-.2 2.5-.1 2.5-.2 2.5 0 2.5-.4 2.5 0 2.5-.1 2.5-.2 2.5 0 2.5-.2 2.5-.1 2.6-.1 2.5-.2 2.5-.1 2.5-.3 2.5 .1 2.5-.4 2.5-.3 2.5-.5 2.5-.1" stroke="#8c564b" stroke-width="0.5" fill="none" stroke-opacity="0.55" stroke-linejoin="round"/>
<path d="M32.8 395.1l2.5-.5 2.5-1 2.5-.3 2.5-1 2.5-1 2.5-.7 2.5-.6 2.5-1.1 2.5-.3 2.5-.9 2.5-.9 2.6-.6 2.5-.2 2.5-.1 2.5-1.6 2.5-.3 2.5-1.1 2.5-2 2.5-.3 2.5-.2 2.5-.8 2.5-.9 2.5-.3 2.6-.8 2.5-1.2 2.5-.6 2.5-1.2 2.5-.8 2.5-.4 2.5-1.4 2.5-.8 2.5-1 2.5-.7 2.5-.8 2.5-1.1 2.5-.6 2.6-1.2 2.5-1.1 2.5-.1 2.5-1.9 2.5-1.1 2.5-.6 2.5-.5 2.5-.8 2.5-1.2" stroke="#e377c2" stroke-width="0.5" fill="none" stroke-opacity="0.55" stroke-linejoin="round"/>
<path d="M32.8 401.7l2.5-.5 2.5-.6 2.5 0 2.5-.8 2.5-.1 2.5-1 2.5-.5 2.5-.2 2.5-1 2.5 .1 2.5-.5 2.6 .2 2.5-.7 2.5-.4 2.5-.9 2.5-.3 2.5-.7 2.5-.7 2.5-.1 2.5-.6 2.5-.5 2.5-.6 2.5-1 2.6-.5 2.5-.9 2.5-.9 2.5-.1 2.5-1.1 2.5-.9 2.5-.4 2.5-.5 2.5-.3 2.5-.8 2.5-.1 2.5-.5 2.5-.7 2.6-.9 2.5-.5 2.5 .1 2.5-.6 2.5-.3 2.5-.2 2.5-.7 2.5-.8 2.5-.2" stroke="#7f7f7f" stroke-width="0.5" fill="none" stroke-opacity="0.55" stroke-linejoin="round"/>
<path d="M32.8 390.8l2.5-1 2.5-1.2 2.5-.8 2.5-1 2.5 .3 2.5-.8 2.5-.9 2.5 0 2.5 0 2.5-1 2.5-.9 2.6-.4 2.5-.2 2.5-.6 2.5-.4 2.5-.3 2.5 .1 2.5-1.7 2.5-.5 2.5-.4 2.5-.3 2.5-.2 2.5-.7 2.6-.7 2.5-.6 2.5-.7 2.5-.7 2.5-.5 2.5 .3 2.5-2.1 2.5 .2 2.5-1.5 2.5-2.2 2.5 .3 2.5-.4 2.5-.7 2.6 0 2.5-1.1 2.5-.4 2.5-1.5 2.5-.2 2.5-1 2.5-1 2.5 .2 2.5-1.2" stroke="#bcbd22" stroke-width="0.5" fill="none" stroke-opacity="0.55" stroke-linejoin="round"/>
<path d="M32.8 405.5l2.5 0 2.5-.5 2.5-.2 2.5-.1 2.5-.5 2.5-.1 2.5-.3 2.5-.2 2.5-1 2.5 0 2.5-.2 2.6-.4 2.5-.1 2.5-.2 2.5-.6 2.5-.4 2.5-.4 2.5-.2 2.5-.1 2.5-.3 2.5-1 2.5-.4 2.5 0 2.6-.9 2.5-.5 2.5-.4 2.5-.4 2.5-.2 2.5-.4 2.5-.2 2.5-.5 2.5 0 2.5-.6 2.5-.1 2.5-.1 2.5-.8 2.6-.4 2.5-.6 2.5-.3 2.5-.4 2.5-.9 2.5-.5 2.5-.3 2.5-.1 2.5-.6" stroke="#17becf" stroke-width="0.5" fill="none" stroke-opacity="0.55" stroke-linejoin="round"/>
<path d="M32.8 407.3l2.5-.3 2.5-.3 2.5-.5 2.5-.4 2.5-.1 2.5-.5 2.5 0 2.5-.5 2.5-.4 2.5-.5 2.5-.6 2.6-.4 2.5-.3 2.5-.4 2.5-.1 2.5-.4 2.5-.4 2.5-.6 2.5-.1 2.5-.6 2.5-.3 2.5-.5 2.5-.4 2.6-.5 2.5-.2 2.5-.6 2.5-.3 2.5-.3 2.5-.9 2.5-.2 2.5-.5 2.5-.5 2.5 0 2.5-.6 2.5-.6 2.5 0 2.6-.6 2.5-.2 2.5-.3 2.5-.7 2.5-.1 2.5-.7 2.5-.5 2.5-.8 2.5-.3" stroke="#1f77b4" stroke-width="0.5" fill="none" stroke-opacity="0.55" stroke-linejoin="round"/>
<path d="M32.8 398.8l2.5-1 2.5 .5 2.5-1.6 2.5 0 2.5-.2 2.5-.7 2.5-.7 2.5-.3 2.5-.2 2.5-1 2.5 .1 2.6-.8 2.5-.8 2.5-.6 2.5-1.1 2.5-.1 2.5-.5 2.5 0 2.5-.5 2.5-.5 2.5-.9 2.5-1 2.5-1.1 2.6 .1 2.5-1 2.5 0 2.5-.6 2.5-1.1 2.5-.5 2.5-.8 2.5-.9 2.5-.9 2.5-.9 2.5-1.1 2.5 .5 2.5-.7 2.6-.2 2.5-1.2 2.5-.3 2.5-1.5 2.5-.1 2.5-.4 2.5-.6 2.5-1.1 2.5-.4" stroke="#ff7f0e" stroke-width="0.5" fill="none" stroke-opacity="0.55" stroke-linejoin="round"/>
<path d="M32.8 400.9l2.5-.2 2.5-.5 2.5-.1 2.5 0 2.5-.5 2.5-.5 2.5 .2 2.5-1 2.5 .2 2.5-.5 2.5-.4 2.6 .2 2.5-.1 2.5 0 2.5-.5 2.5-.2 2.5-1 2.5-.2 2.5 .1 2.5-.3 2.5-.6 2.5 0 2.5-.7 2.6-.2 2.5-.2 2.5-.1 2.5-.4 2.5 .2 2.5-.2 2.5-.5 2.5-1.2 2.5-.1 2.5 .3 2.5-.9 2.5-.3 2.5 .2 2.6-.6 2.5-.4 2.5 .1 2.5-.5 2.5-.5 2.5-.7 2.5 .3 2.5-.6 2.5-.2" stroke="#2ca02c" stroke-width="0.5" fill="none" stroke-opacity="0.55" stroke-linejoin="round"/>
<path d="M32.8 398.9l2.5-.6 2.5-.4 2.5-.3 2.5-.6 2.5 0 2.5-.7 2.5-.6 2.5-.3 2.5-.5 2.5-.8 2.5-.5 2.6-.6 2.5 .1 2.5-.2 2.5-.2 2.5-.6 2.5-.5 2.5-1.1 2.5-.5 2.5-.5 2.5-1.4 2.5 .3 2.5-.6 2.6-.8 2.5-.6 2.5-.8 2.5-.9 2.5-1 2.5 .3 2.5-1.3 2.5-.9 2.5 .1 2.5-1 2.5-1.2 2.5-1 2.5-.8 2.6-1.2 2.5-.5 2.5-.7 2.5-.1 2.5-1.2 2.5-.9 2.5-.7 2.5-.2 2.5-.5" stroke="#d62728" stroke-width="0.5" fill="none" stroke-opacity="0.55" stroke-linejoin="round"/>
<path d="M32.8 398.4l2.5-.7 2.5-.7 2.5-.7 2.5 .1 2.5-.5 2.5-.9 2.5 0 2.5-1.6 2.5 .3 2.5-.5 2.5-.6 2.6-.6 2.5-.3 2.5-.3 2.5 .1 2.5-.5 2.5-.7 2.5-.3 2.5 0 2.5-.8 2.5-.8 2.5 .2 2.5-.8 2.6 0 2.5-.4 2.5-1 2.5-.9 2.5-.6 2.5-.1 2.5 0 2.5-1.4 2.5-.8 2.5 .4 2.5-1 2.5-.9 2.5-.2 2.6-.8 2.5-.4 2.5-.8 2.5-.4 2.5-1.2 2.5-.5 2.5-.5 2.5-.7 2.5-.6" stroke="#9467bd" stroke-width="0.5" fill="none" stroke-opacity="0.55" stroke-linejoin="round"/>
<path d="M32.8 396l2.5-1.3 2.5 .8 2.5-1.5 2.5-.7 2.5-.6 2.5 0 2.5-.2 2.5-.3 2.5-.3 2.5-1.4 2.5-.1 2.6-.7 2.5-.8 2.5 .2 2.5-.4 2.5-.8 2.5-.7 2.5-.1 2.5-.7 2.5-.5 2.5-.3 2.5-.7 2.5-1.3 2.6-.2 2.5 .7 2.5-1.2 2.5-.7 2.5 .1 2.5-1.1 2.5-.2 2.5-1.5 2.5-1 2.5-.1 2.5-1.1 2.5 .2 2.5-1.1 2.6-.1 2.5-.7 2.5-.5 2.5-.5 2.5-.6 2.5-1.1 2.5-.6 2.5-.9 2.5-.8" stroke="#8c564b" stroke-width="0.5" fill="none" stroke-opacity="0.55" stroke-linejoin="round"/>
<path d="M32.8 405.4l2.5-.8 2.5-.5 2.5-.5 2.5-.2 2.5 0 2.5-.2 2.5-.3 2.5-.4 2.5-.2 2.5-1 2.5-.5 2.6 0 2.5-.1 2.5-.5 2.5-.7 2.5-.1 2.5-.3 2.5-.5 2.5-.5 2.5-.3 2.5-.2 2.5-.6 2.5-.5 2.6-.5 2.5-.5 2.5-.5 2.5-.3 2.5-.3 2.5-.5 2.5-.3 2.5-.2 2.5-.9 2.5-.1 2.5-.1 2.5-.4 2.5-.5 2.6-.6 2.5-.4 2.5-.4 2.5-.6 2.5-.6 2.5-.2 2.5-1 2.5-.4 2.5-.4" stroke="#e377c2" stroke-width="0.5" fill="none" stroke-opacity="0.55" stroke-linejoin="round"/>
<path d="M32.8 400.1l2.5-.2 2.5-.6 2.5-.3 2.5-.4 2.5 0 2.5-.3 2.5-.6 2.5-.1 2.5-.4 2.5 .1 2.5-.5 2.6 0 2.5-.7 2.5-.6 2.5-.4 2.5-.1 2.5-.7 2.5 .1 2.5-.6 2.5-.2 2.5-.9 2.5-.2 2.5-.4 2.6-.6 2.5-.2 2.5-.5 2.5-.4 2.5-.3 2.5 .1 2.5-.9 2.5-.3 2.5 .2 2.5-1.6 2.5-.3 2.5-.3 2.5-1 2.6 0 2.5-.9 2.5-.3 2.5-1 2.5-.3 2.5-.5 2.5 .1 2.5-.7 2.5-.3" stroke="#7f7f7f" stroke-width="0.5" fill="none" stroke-opacity="0.55" stroke-linejoin="round"/>
<path d="M32.8 401.4l2.5-.9 2.5-.2 2.5-.3 2.5-.7 2.5 .1 2.5-.4 2.5-.2 2.5-.7 2.5-.4 2.5-.4 2.5-.3 2.6-.6 2.5-.1 2.5-.8 2.5 .1 2.5-.2 2.5-.7 2.5-.4 2.5-.3 2.5-.4 2.5-.4 2.5-.6 2.5-1 2.6-.3 2.5-.3 2.5-.8 2.5-.7 2.5-.3 2.5-.5 2.5-.8 2.5 0 2.5-.9 2.5-.6 2.5-.2 2.5-.6 2.5-.4 2.6-.5 2.5-.9 2.5-.6 2.5-1.2 2.5-.7 2.5-.5 2.5-.5 2.5-.4 2.5-.5" stroke="#bcbd22" stroke-width="0.5" fill="none" stroke-opacity="0.55" stroke-linejoin="round"/>
<path d="M32.8 402.7l2.5-1 2.5-.6 2.5-.2 2.5-.2 2.5 0 2.5-.4 2.5 .2 2.5-.3 2.5-.3 2.5 .3 2.5-.4 2.6-.3 2.5-.3 2.5-.2 2.5-.6 2.5-.3 2.5-.5 2.5 .2 2.5-.4 2.5-.2 2.5-.8 2.5 .5 2.5-.3 2.6-1.1 2.5-.2 2.5 .6 2.5-.8 2.5-.3 2.5-.5 2.5 .2 2.5-.8 2.5-.4 2.5-.3 2.5 .1 2.5-.5 2.5-.1 2.6-.6 2.5 0 2.5-1.1 2.5 .1 2.5 .2 2.5-.5 2.5-.2 2.5-.8 2.5-.2" stroke="#17becf" stroke-width="0.5" fill="none" stroke-opacity="0.55" stroke-linejoin="round"/>
<path d="M32.8 395.4l2.5-1 2.5-.2 2.5-.3 2.5-1.2 2.5 .2 2.5-.5 2.5 0 2.5-.6 2.5-1.1 2.5-.3 2.5-.2 2.6-1.1 2.5-.8 2.5 0 2.5-.5 2.5-.1 2.5-1 2.5 0 2.5-.7 2.5-.6 2.5-.8 2.5-1.5 2.5-.2 2.6-1.2 2.5-.9 2.5-.1 2.5-.8 2.5-.9 2.5-1 2.5-.8 2.5-1.2 2.5-.7 2.5-.6 2.5-.1 2.5-1.1 2.5-.9 2.6-1 2.5 .3 2.5-1.7 2.5-.4 2.5-1.4 2.5 .1 2.5-1.5 2.5-.5 2.5-.2" stroke="#1f77b4" stroke-width="0.5" fill="none" stroke-opacity="0.55" stroke-linejoin="round"/>
<path d="M32.8 395.4l2.5 .2 2.5 0 2.5 .1 2.5-.7 2.5-1.3 2.5-.3 2.5-1 2.5-.3 2.5-1 2.5-.7 2.5-.3 2.6-.7 2.5-.3 2.5-1 2.5-.5 2.5-.8 2.5-.7 2.5-.7 2.5-1.1 2.5-1.2 2.5-.6 2.5-1.1 2.5-.7 2.6-.2 2.5-.9 2.5-.7 2.5 0 2.5-.9 2.5-1 2.5-.4 2.5-.3 2.5-.2 2.5-1 2.5-.6 2.5-.5 2.5-.9 2.6-.5 2.5-1.4 2.5-.8 2.5 .1 2.5-2 2.5-.4 2.5-1.2 2.5-.8 2.5-.4" stroke="#ff7f0e" stroke-width="0.5" fill="none" stroke-opacity="0.55" stroke-linejoin="round"/>
<path d="M32.8 406.6l2.5-.1 2.5-.1 2.5-.6 2.5-.5 2.5-.3 2.5-.3 2.5-.4 2.5-.4 2.5 0 2.5-.4 2.5-.3 2.6-.5 2.5-.5 2.5-.5 2.5-.2 2.5-.1 2.5-.1 2.5-.7 2.5-.2 2.5-.5 2.5 0 2.5-.4 2.5 0 2.6-.4 2.5-.5 2.5-.3 2.5-.3 2.5-.3 2.5-.3 2.5-.4 2.5-.2 2.5-.4 2.5-.1 2.5-.5 2.5-.2 2.5-.6 2.6-.5 2.5 .1 2.5-.1 2.5-.8 2.5-.5 2.5-.6 2.5-.1 2.5-.6 2.5-.5" stroke="#2ca02c" stroke-width="0.5" fill="none" stroke-opacity="0.55" stroke-linejoin="round"/>
<path d="M32.8 393.1l2.5-.5 2.5-1 2.5-.6 2.5-.1 2.5-.4 2.5-.8 2.5-.5 2.5-.9 2.5-1.3 2.5-.9 2.5-.9 2.6 .4 2.5 .2 2.5-.6 2.5-.9 2.5-.6 2.5 0 2.5-.6 2.5-1.1 2.5-.2 2.5-.9 2.5-.7 2.5 .2 2.6-.9 2.5-.8 2.5-.7 2.5-.1 2.5-.2 2.5-1.2 2.5 .4 2.5-1.7 2.5-.6 2.5-.7 2.5-.2 2.5-1.3 2.5-.6 2.6-1.6 2.5 .2 2.5-1.1 2.5-.3 2.5-.9 2.5-.9 2.5-.9 2.5-.7 2.5-1.5" stroke="#d62728" stroke-width="0.5" fill="none" stroke-opacity="0.55" stroke-linejoin="round"/>
<path d="M32.8 404.8l2.5-.6 2.5-.3 2.5 .1 2.5 0 2.5-.4 2.5-.4 2.5-.3 2.5-.7 2.5-.1 2.5-.3 2.5-.6 2.6-.3 2.5-.3 2.5-.1 2.5-.5 2.5-.9 2.5 0 2.5-.9 2.5-.5 2.5 0 2.5-.5 2.5-.2 2.5-.6 2.6 .2 2.5-.1 2.5-.6 2.5 .1 2.5-.7 2.5-.1 2.5-.3 2.5-.7 2.5-.4 2.5-.2 2.5-.4 2.5-.7 2.5-.6 2.6-.6 2.5-.5 2.5-.4 2.5-.2 2.5-.7 2.5-.5 2.5-.4 2.5-.5 2.5 .1" stroke="#9467bd" stroke-width="0.5" fill="none" stroke-opacity="0.55" stroke-linejoin="round"/>
<path d="M32.8 403.5l2.5-.1 2.5-.7 2.5-.6 2.5-.4 2.5-.2 2.5-.2 2.5-.1 2.5 0 2.5-.5 2.5-.8 2.5-.5 2.6-.8 2.5 .2 2.5 .4 2.5-.8 2.5-.2 2.5-.3 2.5-1 2.5-.3 2.5 .1 2.5 0 2.5-.9 2.5-.4 2.6 .1 2.5-1 2.5-.3 2.5-.6 2.5 0 2.5-.8 2.5-.5 2.5-.4 2.5-.8 2.5 .2 2.5-.6 2.5-.5 2.5-.1 2.6-.6 2.5-.1 2.5-.4 2.5-.4 2.5-.6 2.5-.1 2.5-.2 2.5-.5 2.5-.2" stroke="#8c564b" stroke-width="0.5" fill="none" stroke-opacity="0.55" stroke-linejoin="round"/>
<path d="M32.8 403.2l2.5 .1 2.5 0 2.5-.8 2.5 .2 2.5-.7 2.5 .1 2.5-.5 2.5-.3 2.5-.4 2.5-.7 2.5-.3 2.6-.3 2.5-.2 2.5-.5 2.5-.6 2.5-.2 2.5 0 2.5-1.1 2.5-.8 2.5 .2 2.5-.5 2.5-.4 2.5-.2 2.6-.1 2.5-.3 2.5-.2 2.5-.8 2.5-.5 2.5-.3 2.5-.4 2.5-.6 2.5 0 2.5-.7 2.5-.2 2.5-.2 2.5-.7 2.6-.4 2.5-.7 2.5-.7 2.5-.8 2.5-.6 2.5-.6 2.5-.3 2.5-.3 2.5-.9" stroke="#e377c2" stroke-width="0.5" fill="none" stroke-opacity="0.55" stroke-linejoin="round"/>
<path d="M32.8 403.9l2.5-.4 2.5-.4 2.5-.3 2.5 .1 2.5-1 2.5 .1 2.5 .1 2.5-.4 2.5-.2 2.5-.8 2.5-.3 2.6-.2 2.5-.5 2.5-.4 2.5 .1 2.5-.3 2.5-.7 2.5-.4 2.5-.1 2.5-.4 2.5-.4 2.5 .4 2.5-.9 2.6 0 2.5-.2 2.5-.2 2.5-1.3 2.5 .6 2.5-1 2.5 .2 2.5-1 2.5-.3 2.5-.4 2.5-.1 2.5-.8 2.5-.8 2.6-.3 2.5 .4 2.5-.6 2.5 0 2.5-.8 2.5 .1 2.5-.5 2.5-.4 2.5-.7" stroke="#7f7f7f" stroke-width="0.5" fill="none" stroke-opacity="0.55" stroke-linejoin="round"/>
<path d="M32.8 391.6l2.5-.4 2.5-.3 2.5 .1 2.5-.8 2.5-.1 2.5-1 2.5 .5 2.5-.7 2.5-.9 2.5-.3 2.5-.9 2.6 .9 2.5-.8 2.5-.5 2.5-.6 2.5 .1 2.5-.8 2.5-.3 2.5-.8 2.5 .7 2.5-.6 2.5-1.2 2.5-.1 2.6-.4 2.5-1.5 2.5-.6 2.5 0 2.5 .6 2.5-1.6 2.5-.5 2.5-.9 2.5-.1 2.5-1.7 2.5-.1 2.5-.8 2.5 .1 2.6-1.3 2.5-1.1 2.5-.3 2.5-1.4 2.5-.1 2.5-.6 2.5-1.7 2.5-.6 2.5-.6" stroke="#bcbd22" stroke-width="0.5" fill="none" stroke-opacity="0.55" stroke-linejoin="round"/>
<path d="M32.8 404.7l2.5 .2 2.5-.4 2.5-.4 2.5-.3 2.5 .3 2.5-.9 2.5 0 2.5 .2 2.5 .1 2.5 .2 2.5-1 2.6 .1 2.5-.3 2.5 .1 2.5-.4 2.5 .1 2.5-.3 2.5-.4 2.5-.3 2.5 .3 2.5-.5 2.5-.5 2.5-.1 2.6-.4 2.5 .1 2.5-.4 2.5-.3 2.5-.6 2.5-.6 2.5-.2 2.5-.7 2.5 .3 2.5-.3 2.5-.4 2.5-.2 2.5-.4 2.6-.2 2.5-.5 2.5-.7 2.5-.2 2.5 .3 2.5-.9 2.5 .1 2.5-.4 2.5-.6" stroke="#17becf" stroke-width="0.5" fill="none" stroke-opacity="0.55" stroke-linejoin="round"/>
<path d="M32.8 410l2.5-.2 2.5-.4 2.5 0 2.5-.1 2.5-.1 2.5-.2 2.5-.1 2.5-.3 2.5 .1 2.5-.3 2.5 .1 2.6-.3 2.5 0 2.5-.2 2.5 0 2.5-.1 2.5-.2 2.5-.2 2.5-.2 2.5-.3 2.5-.6 2.5 0 2.5-.2 2.6-.4 2.5-.3 2.5 0 2.5-.2 2.5-.1 2.5-.2 2.5-.3 2.5 0 2.5-.2 2.5-.4 2.5 0 2.5-.1 2.5-.2 2.6-.3 2.5 .1 2.5-.5 2.5 .1 2.5-.4 2.5-.2 2.5 0 2.5-.3 2.5-.1" stroke="#1f77b4" stroke-width="0.5" fill="none" stroke-opacity="0.55" stroke-linejoin="round"/>
<path d="M32.8 411.9l2.5-.1 2.5-.1 2.5 0 2.5-.5 2.5 0 2.5 .1 2.5-.3 2.5 0 2.5-.1 2.5 0 2.5-.3 2.6-.1 2.5 0 2.5-.2 2.5-.2 2.5-.2 2.5-.3 2.5 0 2.5-.3 2.5-.1 2.5 0 2.5-.2 2.5-.1 2.6-.4 2.5 .1 2.5-.3 2.5-.1 2.5-.2 2.5-.2 2.5-.4 2.5 .1 2.5-.3 2.5-.2 2.5 0 2.5-.2 2.5-.4 2.6 0 2.5-.3 2.5 0 2.5-.2 2.5 0 2.5-.1 2.5-.3 2.5-.3 2.5-.1" stroke="#ff7f0e" stroke-width="0.5" fill="none" stroke-opacity="0.55" stroke-linejoin="round"/>
<path d="M32.8 404.2l2.5-.6 2.5-.4 2.5-.3 2.5-.7 2.5-.8 2.5 .3 2.5-.7 2.5 .1 2.5-.9 2.5 .1 2.5-.4 2.6-.4 2.5-.3 2.5-.9 2.5 0 2.5-.4 2.5-.4 2.5-.6 2.5-.5 2.5 0 2.5-.5 2.5-.7 2.5-1 2.6-.4 2.5-.4 2.5 0 2.5-.8 2.5-.5 2.5-.2 2.5-.9 2.5 .4 2.5-.5 2.5-.4 2.5-.8 2.5-.8 2.5-.6 2.6-.1 2.5-.2 2.5-.7 2.5-.4 2.5-.3 2.5-.2 2.5-.5 2.5-.2 2.5-.4" stroke="#2ca02c" stroke-width="0.5" fill="none" stroke-opacity="0.55" stroke-linejoin="round"/>
<path d="M32.8 400.1l2.5-.5 2.5-.2 2.5-.6 2.5 0 2.5-.1 2.5-1.1 2.5 0 2.5 .1 2.5 .3 2.5-.9 2.5 .2 2.6 .2 2.5-.3 2.5-.3 2.5-.6 2.5-.6 2.5 .1 2.5-.2 2.5-.8 2.5-.7 2.5 .1 2.5-.7 2.5-.2 2.6-.7 2.5-.6 2.5-.4 2.5-.6 2.5-1 2.5-.4 2.5-.2 2.5-.4 2.5-.2 2.5-.1 2.5-.9 2.5-1 2.5-.4 2.6-.7 2.5-.1 2.5-.7 2.5-.5 2.5 .3 2.5-.8 2.5-.7 2.5-.8 2.5-1.6" stroke="#d62728" stroke-width="0.5" fill="none" stroke-opacity="0.55" stroke-linejoin="round"/>
<path d="M32.8 390.3l2.5-1.4 2.5-.9 2.5-.8 2.5 .7 2.5-1.7 2.5-.7 2.5 .1 2.5-.7 2.5-.9 2.5-.3 2.5-1.3 2.6 .4 2.5-.9 2.5-1 2.5-.7 2.5-.6 2.5-1.7 2.5-.7 2.5-.9 2.5 .1 2.5-.4 2.5-.8 2.5-1.1 2.6-1 2.5-.7 2.5-1.3 2.5-.8 2.5-.5 2.5-.9 2.5-.5 2.5-.9 2.5-.6 2.5-1.3 2.5-.8 2.5-1.4 2.5-1.5 2.6 .2 2.5-1.8 2.5-.8 2.5-1.3 2.5-.7 2.5-1 2.5-.6 2.5-.5 2.5-1.2" stroke="#9467bd" stroke-width="0.5" fill="none" stroke-opacity="0.55" stroke-linejoin="round"/>
<path d="M32.8 408.9l2.5-.1 2.5-.2 2.5-.4 2.5-.5 2.5-.2 2.5-.1 2.5-.4 2.5-.3 2.5 0 2.5-.3 2.5-.4 2.6 .3 2.5-.6 2.5 .2 2.5-.5 2.5 0 2.5-.3 2.5-.5 2.5-.2 2.5-.2 2.5-.5 2.5-.3 2.5 0 2.6-.5 2.5-.1 2.5 .1 2.5-.1 2.5-.4 2.5 .2 2.5-.5 2.5-.4 2.5-.2 2.5-.1 2.5-.1 2.5-.5 2.5-.4 2.6-.3 2.5-.5 2.5-.3 2.5 .1 2.5-.1 2.5-.5 2.5-.4 2.5-.5 2.5-.2" stroke="#8c564b" stroke-width="0.5" fill="none" stroke-opacity="0.55" stroke-linejoin="round"/>
<path d="M32.8 406.6l2.5 0 2.5-.2 2.5-.3 2.5-.7 2.5-.1 2.5-.3 2.5 .2 2.5-.5 2.5-.3 2.5-.3 2.5-.5 2.6-.4 2.5-.4 2.5-.1 2.5 .1 2.5-.4 2.5-.3 2.5-.5 2.5-.3 2.5-.3 2.5-.3 2.5 .1 2.5-.7 2.6-.1 2.5-.5 2.5-.1 2.5 .2 2.5-.4 2.5-.5 2.5-.2 2.5-.3 2.5-.2 2.5-.7 2.5-.5 2.5-.3 2.5-.4 2.6-.3 2.5-.2 2.5-.3 2.5-.1 2.5-.3 2.5-.3 2.5-.6 2.5-.2 2.5-.4" stroke="#e377c2" stroke-width="0.5" fill="none" stroke-opacity="0.55" stroke-linejoin="round"/>
<path d="M32.8 393.7l2.5-.1 2.5-.8 2.5 .9 2.5-1.5 2.5-.9 2.5-.8 2.5 .5 2.5-.7 2.5-.9 2.5-.2 2.5-.3 2.6-.3 2.5-.3 2.5-.6 2.5-.5 2.5-.8 2.5-.6 2.5-.5 2.5-.5 2.5-.9 2.5-.5 2.5-.1 2.5-.5 2.6-.9 2.5 .1 2.5-.8 2.5-1.5 2.5-1.1 2.5 .4 2.5-.1 2.5-1.1 2.5-1.5 2.5-.5 2.5-.9 2.5-.6 2.5-.4 2.6-.7 2.5-1 2.5-.7 2.5-.6 2.5-.6 2.5-.8 2.5-.4 2.5-.2 2.5-.9" stroke="#7f7f7f" stroke-width="0.5" fill="none" stroke-opacity="0.55" stroke-linejoin="round"/>
<path d="M32.8 403.1l2.5-.4 2.5-.6 2.5-.5 2.5 0 2.5-.4 2.5 0 2.5-.6 2.5-.5 2.5-.5 2.5-.8 2.5-.2 2.6-.3 2.5-.3 2.5-.8 2.5-.3 2.5-.4 2.5-.6 2.5-.2 2.5-1 2.5-.4 2.5-.4 2.5-.6 2.5 0 2.6-.3 2.5-.6 2.5-.2 2.5-.6 2.5-.3 2.5-.7 2.5-.1 2.5-.4 2.5-.6 2.5-.9 2.5-.3 2.5-.2 2.5-.8 2.6-.4 2.5 .1 2.5-.7 2.5-.1 2.5-.5 2.5-.5 2.5-.2 2.5-.3 2.5-.5" stroke="#bcbd22" stroke-width="0.5" fill="none" stroke-opacity="0.55" stroke-linejoin="round"/>
<path d="M32.8 398.6l2.5-.7 2.5 .2 2.5-.6 2.5-.4 2.5-.7 2.5-.5 2.5 .2 2.5 0 2.5-.1 2.5-.5 2.5-.2 2.6-.6 2.5-.6 2.5-.6 2.5 0 2.5-.3 2.5-.9 2.5-.2 2.5-.2 2.5-1.4 2.5-.1 2.5-.6 2.5-.5 2.6-.1 2.5-1.4 2.5-.1 2.5-.7 2.5-.3 2.5-.4 2.5 .7 2.5-.2 2.5-.9 2.5-.5 2.5-.6 2.5-.8 2.5-.9 2.6 .3 2.5-1 2.5-.6 2.5-.8 2.5-.8 2.5-.4 2.5 .2 2.5-1.5 2.5-.1" stroke="#17becf" stroke-width="0.5" fill="none" stroke-opacity="0.55" stroke-linejoin="round"/>
<path d="M32.8 404.1l2.5-.4 2.5-.5 2.5-.1 2.5-.3 2.5-.5 2.5-.3 2.5 .1 2.5-.3 2.5-.5 2.5-.2 2.5-.5 2.6-.6 2.5-.3 2.5-.5 2.5-.8 2.5-.8 2.5-.3 2.5-.3 2.5-1.1 2.5-.4 2.5-.2 2.5-.4 2.5-.6 2.6-.4 2.5-.4 2.5 .2 2.5-.5 2.5-.6 2.5-.3 2.5-.6 2.5-.6 2.5-.5 2.5-1 2.5 .1 2.5-.5 2.5-.6 2.6-.6 2.5-.6 2.5-.8 2.5-.2 2.5-.8 2.5 .1 2.5-.7 2.5-.5 2.5-1" stroke="#1f77b4" stroke-width="0.5" fill="none" stroke-opacity="0.55" stroke-linejoin="round"/>
<path d="M32.8 409.5l2.5-.2 2.5-.3 2.5-.1 2.5-.3 2.5 0 2.5-.3 2.5-.2 2.5-.4 2.5-.2 2.5-.2 2.5 0 2.6-.3 2.5-.1 2.5-.3 2.5-.4 2.5-.2 2.5-.2 2.5-.2 2.5-.5 2.5-.2 2.5-.6 2.5-.2 2.5-.2 2.6-.3 2.5-.2 2.5-.3 2.5-.3 2.5-.2 2.5-.3 2.5-.1 2.5-.4 2.5-.4 2.5-.3 2.5 .1 2.5-.7 2.5 0 2.6 0 2.5-.5 2.5 0 2.5-.5 2.5-.5 2.5-.1 2.5-.3 2.5-.3 2.5-.2" stroke="#ff7f0e" stroke-width="0.5" fill="none" stroke-opacity="0.55" stroke-linejoin="round"/>
<path d="M32.8 400l2.5-.2 2.5-1.1 2.5-.4 2.5 0 2.5-.7 2.5-.7 2.5-.3 2.5-.8 2.5-.8 2.5-.2 2.5-.6 2.6-.5 2.5-.9 2.5-.8 2.5-.4 2.5-.4 2.5-.6 2.5-.1 2.5-.5 2.5-.6 2.5-.6 2.5-.7 2.5-.3 2.6-.8 2.5-.9 2.5-.5 2.5-.3 2.5-1 2.5-.3 2.5-.5 2.5-1.2 2.5-.4 2.5-1.2 2.5-.6 2.5-.1 2.5-.9 2.6-.3 2.5-1.1 2.5-.8 2.5-.4 2.5-.6 2.5-1.4 2.5-.5 2.5-.7 2.5-.6" stroke="#2ca02c" stroke-width="0.5" fill="none" stroke-opacity="0.55" stroke-linejoin="round"/>
<path d="M32.8 407.5l2.5 .1 2.5-.3 2.5 0 2.5-.5 2.5-.1 2.5 .1 2.5-.2 2.5-.3 2.5 0 2.5 .1 2.5-.3 2.6-.4 2.5 0 2.5-.3 2.5-.3 2.5-.3 2.5-.1 2.5-.2 2.5 0 2.5-.1 2.5-.4 2.5-.5 2.5 .1 2.6-.7 2.5 .1 2.5 .2 2.5-.2 2.5-.5 2.5-.4 2.5 0 2.5-.3 2.5-.3 2.5-.3 2.5-.1 2.5-.3 2.5-.5 2.6-.2 2.5-.1 2.5-.3 2.5-.3 2.5-.5 2.5 0 2.5-.3 2.5-.2 2.5-.3" stroke="#d62728" stroke-width="0.5" fill="none" stroke-opacity="0.55" stroke-linejoin="round"/>
<path d="M32.8 409.4l2.5-.3 2.5 0 2.5 .2 2.5-.3 2.5-.2 2.5-.1 2.5 .2 2.5-.2 2.5 .2 2.5-.2 2.5 0 2.6-.5 2.5-.3 2.5 .2 2.5-.4 2.5-.2 2.5-.1 2.5-.4 2.5-.2 2.5-.2 2.5-.3 2.5-.2 2.5-.5 2.6-.2 2.5-.2 2.5 0 2.5 .2 2.5-.6 2.5-.4 2.5 0 2.5-.5 2.5-.2 2.5-.4 2.5-.1 2.5-.2 2.5-.3 2.6-.5 2.5 .2 2.5-.3 2.5-.6 2.5-.2 2.5-.3 2.5 0 2.5-.4 2.5-.3" stroke="#9467bd" stroke-width="0.5" fill="none" stroke-opacity="0.55" stroke-linejoin="round"/>
<path d="M32.8 412.4l2.5 .1 2.5-.3 2.5-.2 2.5-.1 2.5 0 2.5-.2 2.5-.3 2.5 .1 2.5-.1 2.5-.2 2.5-.2 2.6-.1 2.5-.2 2.5-.2 2.5-.1 2.5-.2 2.5-.1 2.5-.1 2.5-.3 2.5-.2 2.5-.2 2.5 .1 2.5-.2 2.6-.1 2.5-.2 2.5 .1 2.5-.2 2.5-.3 2.5-.2 2.5-.1 2.5 0 2.5-.2 2.5-.1 2.5-.2 2.5-.1 2.5-.1 2.6-.3 2.5 0 2.5-.2 2.5-.3 2.5-.2 2.5-.1 2.5-.2 2.5-.3 2.5-.3" stroke="#8c564b" stroke-width="0.5" fill="none" stroke-opacity="0.55" stroke-linejoin="round"/>
<path d="M32.8 403.1l2.5 .2 2.5-.7 2.5-.3 2.5 .4 2.5-.6 2.5-.3 2.5-1 2.5 .2 2.5-.1 2.5-.2 2.5-.3 2.6 .2 2.5-.2 2.5-.9 2.5 .4 2.5-.5 2.5-.7 2.5-.2 2.5-.4 2.5 .2 2.5-.5 2.5-.3 2.5-.3 2.6-.6 2.5-.6 2.5-.6 2.5-.3 2.5-.5 2.5-.7 2.5-.6 2.5-.5 2.5-.1 2.5 0 2.5-.4 2.5-.5 2.5-.5 2.6-.1 2.5-.6 2.5-.3 2.5-.7 2.5-.5 2.5 .3 2.5-.7 2.5-.7 2.5-.5" stroke="#e377c2" stroke-width="0.5" fill="none" stroke-opacity="0.55" stroke-linejoin="round"/>
<path d="M32.8 408.8l2.5-.5 2.5-.3 2.5 .1 2.5-.5 2.5-.1 2.5 0 2.5-.3 2.5-.5 2.5 .2 2.5-.1 2.5-.1 2.6-.2 2.5 .2 2.5-.6 2.5-.4 2.5-.3 2.5-.2 2.5-.1 2.5-.4 2.5-.1 2.5-.5 2.5-.1 2.5-.1 2.6-.1 2.5-.5 2.5-.1 2.5-1 2.5 0 2.5-.2 2.5-.3 2.5-.3 2.5-.4 2.5-.2 2.5-.5 2.5-.1 2.5 .2 2.6-.5 2.5-.1 2.5-.2 2.5-.3 2.5-.5 2.5-.2 2.5-.7 2.5-.1 2.5-.6" stroke="#7f7f7f" stroke-width="0.5" fill="none" stroke-opacity="0.55" stroke-linejoin="round"/>
<path d="M32.8 402.9l2.5-.6 2.5-.3 2.5 .2 2.5-.6 2.5-.7 2.5-.3 2.5-1 2.5-.6 2.5-.6 2.5-.4 2.5-1.1 2.6-.4 2.5-.2 2.5-.5 2.5-.8 2.5 0 2.5-1 2.5-.5 2.5-.7 2.5-.5 2.5-.2 2.5-.3 2.5-.2 2.6-.5 2.5-.5 2.5-.7 2.5-.4 2.5-.7 2.5-.4 2.5-1 2.5-.7 2.5-.6 2.5-.5 2.5-1 2.5-.3 2.5-.4 2.6-.2 2.5-1.2 2.5-1.1 2.5-.1 2.5-.6 2.5-.6 2.5-.8 2.5-.3 2.5-1.2" stroke="#bcbd22" stroke-width="0.5" fill="none" stroke-opacity="0.55" stroke-linejoin="round"/>
<path d="M32.8 398.3l2.5-.5 2.5-.2 2.5-.3 2.5-.9 2.5-1 2.5-.4 2.5-.8 2.5 .1 2.5-.3 2.5-.8 2.5-.8 2.6-.6 2.5-.3 2.5-.9 2.5-.5 2.5-.3 2.5-.7 2.5-.9 2.5-.6 2.5-.2 2.5-.8 2.5 0 2.5-.9 2.6-.4 2.5-.7 2.5-1.1 2.5 .1 2.5 0 2.5-.7 2.5-.4 2.5-.7 2.5-.6 2.5-.2 2.5-.4 2.5-1.2 2.5-.3 2.6-.2 2.5-1 2.5-.4 2.5-1 2.5-.6 2.5-1.3 2.5-.2 2.5-.2 2.5-.4" stroke="#17becf" stroke-width="0.5" fill="none" stroke-opacity="0.55" stroke-linejoin="round"/>
<polygon points="32.8,400.2 35.3,399.9 37.8,399.5 40.3,399.2 42.8,398.9 45.3,398.5 47.8,398.2 50.3,397.8 52.8,397.5 55.3,397.2 57.8,396.8 60.3,396.5 62.9,396.1 65.4,395.8 67.9,395.4 70.4,395.1 72.9,394.8 75.4,394.4 77.9,394.1 80.4,393.7 82.9,393.4 85.4,393 87.9,392.7 90.4,392.3 93,392 95.5,391.6 98,391.3 100.5,390.9 103,390.6 105.5,390.2 108,389.9 110.5,389.5 113,389.2 115.5,388.8 118,388.4 120.5,388.1 123,387.7 125.6,387.4 128.1,387 130.6,386.7 133.1,386.3 135.6,385.9 138.1,385.6 140.6,385.2 143.1,384.9 145.6,384.5 145.6,386.1 143.1,386.5 140.6,386.9 138.1,387.2 135.6,387.6 133.1,387.9 130.6,388.3 128.1,388.7 125.6,389 123,389.4 120.5,389.7 118,390.1 115.5,390.4 113,390.8 110.5,391.1 108,391.5 105.5,391.9 103,392.2 100.5,392.6 98,392.9 95.5,393.3 93,393.6 90.4,394 87.9,394.3 85.4,394.7 82.9,395 80.4,395.4 77.9,395.7 75.4,396 72.9,396.4 70.4,396.7 67.9,397.1 65.4,397.4 62.9,397.8 60.3,398.1 57.8,398.5 55.3,398.8 52.8,399.1 50.3,399.5 47.8,399.8 45.3,400.2 42.8,400.5 40.3,400.8 37.8,401.2 35.3,401.5 32.8,401.8" fill="#2a9fd8" fill-opacity="0.95"/>
<path d="M45.3 340.3V419" stroke="#f25c86" stroke-width="1.100" stroke-dasharray="4.400 1.800" fill="none"/>
</g>
<rect x="27.7" y="339.8" width="120.9" height="79.2" fill="none" stroke="#222" stroke-width=".8"/>
<path d="M45.3 419v2.200M66.2 419v2.200M87.1 419v2.200M108 419v2.200M128.9 419v2.200M149.8 419v2.200M27.7 417.4h-2.200M27.7 403.8h-2.200M27.7 390.1h-2.200M27.7 376.4h-2.200M27.7 362.8h-2.200M27.7 349.1h-2.200" stroke="#222" stroke-width=".6" fill="none"/>
<g font-size="7"><text x="45.3" y="427.3" text-anchor="middle">0</text><text x="66.2" y="427.3" text-anchor="middle">5</text><text x="87.1" y="427.3" text-anchor="middle">10</text><text x="108" y="427.3" text-anchor="middle">15</text><text x="128.9" y="427.3" text-anchor="middle">20</text><text x="149.8" y="427.3" text-anchor="middle">25</text><text x="24.5" y="419.8" text-anchor="end">0</text><text x="24.5" y="406.1" text-anchor="end">200</text><text x="24.5" y="392.5" text-anchor="end">400</text><text x="24.5" y="378.8" text-anchor="end">600</text><text x="24.5" y="365.2" text-anchor="end">800</text><text x="24.5" y="351.5" text-anchor="end">1000</text><text x="94.1" y="435.8" text-anchor="middle">Time (h)</text><text transform="translate(9 380.5) rotate(-90)" text-anchor="middle">Area (µm²)</text></g>
<text x="91.7" y="334.8" font-size="8.25" text-anchor="middle">Reference</text>
<rect x="28.4" y="341.3" width="48" height="20.2" rx="1" fill="#fff" fill-opacity=".8" stroke="#ccc" stroke-width=".5"/>
<g font-size="5.75"><path d="M30.9 344.3h7.5" stroke="#f2557f" stroke-width=".8" stroke-dasharray="2.800 1.200"/><text x="40.9" y="346.2">Drug addition</text><rect x="30.9" y="349.3" width="7.5" height="3.400" fill="#a9d9f1"/><text x="40.9" y="352.9">Mean±SD</text><rect x="30.9" y="356" width="7.5" height="3.400" fill="#2a9fd8"/><text x="40.9" y="359.6">Mean±SEM</text></g>
<clipPath id="c2"><rect x="166.4" y="339.5" width="122.2" height="80.5"/></clipPath>
<rect x="166.4" y="339.5" width="122.2" height="80.5" fill="#fff"/>
<g clip-path="url(#c2)">
<polygon points="171.5,373.6 174,373.3 176.5,373.1 179,372.8 181.5,372.5 184,372.3 186.5,370.8 189,369.8 191.5,369.1 194,368.6 196.5,368.2 199,367.9 201.6,367.7 204.1,367.5 206.6,367.3 209.1,367.2 211.6,367.1 214.1,367 216.6,366.8 219.1,366.7 221.6,366.6 224.1,366.5 226.6,366.4 229.1,366.3 231.7,366.2 234.2,366.1 236.7,366 239.2,365.9 241.7,365.8 244.2,365.7 246.7,365.6 249.2,365.5 251.7,365.4 254.2,365.3 256.7,365.3 259.2,365.2 261.7,365.1 264.3,365 266.8,364.9 269.3,364.8 271.8,364.7 274.3,364.6 276.8,364.5 279.3,364.4 281.8,364.3 284.3,364.2 284.3,393.7 281.8,393.8 279.3,393.8 276.8,393.9 274.3,393.9 271.8,394 269.3,394 266.8,394 264.3,394.1 261.7,394.1 259.2,394.2 256.7,394.2 254.2,394.3 251.7,394.3 249.2,394.4 246.7,394.4 244.2,394.4 241.7,394.5 239.2,394.5 236.7,394.6 234.2,394.6 231.7,394.7 229.1,394.7 226.6,394.8 224.1,394.8 221.6,394.9 219.1,394.9 216.6,395 214.1,395 211.6,395.1 209.1,395.1 206.6,395.2 204.1,395.3 201.6,395.5 199,395.6 196.5,395.9 194,396.2 191.5,396.6 189,397.3 186.5,398.3 184,399.7 181.5,399.9 179,400.1 176.5,400.3 174,400.5 171.5,400.7" fill="#f8a9c0" fill-opacity="0.6"/>
<path d="M171.5 376.1l2.5-1.1 2.5-.7 2.5 0 2.5-.2 2.5-.8 2.5-2.3 2.5-1.5 2.5-.9 2.5 0 2.5-.6 2.5 .1 2.6-.1 2.5-.4 2.5-.6 2.5-.1 2.5 .3 2.5-.6 2.5 0 2.5-.1 2.5-.3 2.5 .4 2.5-.1 2.5 .5 2.6-1.5 2.5-.2 2.5 .3 2.5-.6 2.5-.2 2.5-.2 2.5 .4 2.5-.6 2.5 .2 2.5 1.1 2.5 .2 2.5-.2 2.5 .2 2.6-.1 2.5 .5 2.5-.3 2.5-.7 2.5-.9 2.5-.2 2.5 .5 2.5-.6 2.5 0" stroke="#1f77b4" stroke-width="0.5" fill="none" stroke-opacity="0.55" stroke-linejoin="round"/>
<path d="M171.5 404.7l2.5 .1 2.5-.6 2.5-.2 2.5 0 2.5 .2 2.5-.7 2.5-.1 2.5-.2 2.5 .1 2.5 .1 2.5-.2 2.6 .1 2.5 0 2.5 .1 2.5 0 2.5-.2 2.5 0 2.5 .2 2.5-.1 2.5 0 2.5-.1 2.5 .1 2.5 .2 2.6 .1 2.5 .1 2.5-.1 2.5 .2 2.5-.2 2.5 .1 2.5-.2 2.5-.2 2.5 .4 2.5-.5 2.5 0 2.5 0 2.5-.1 2.6 .2 2.5-.2 2.5 0 2.5-.1 2.5-.2 2.5 0 2.5 0 2.5 .2 2.5-.1" stroke="#ff7f0e" stroke-width="0.5" fill="none" stroke-opacity="0.55" stroke-linejoin="round"/>
<path d="M171.5 374.9l2.5-1.1 2.5-.7 2.5 .2 2.5-.5 2.5 0 2.5-.3 2.5-2.4 2.5-.6 2.5 0 2.5-1.4 2.5-.7 2.6-.3 2.5-.1 2.5-.4 2.5-1.2 2.5 .4 2.5 0 2.5-.6 2.5-.6 2.5-.1 2.5-.3 2.5-.2 2.5 0 2.6 .2 2.5 .1 2.5-.1 2.5-.5 2.5-1 2.5-.1 2.5-.6 2.5 .3 2.5-.8 2.5-.2 2.5 0 2.5-.4 2.5 .9 2.6-.3 2.5-.6 2.5-1.1 2.5 .1 2.5 .3 2.5-.3 2.5 0 2.5-.2 2.5 .7" stroke="#2ca02c" stroke-width="0.5" fill="none" stroke-opacity="0.55" stroke-linejoin="round"/>
<path d="M171.5 378.9l2.5-.6 2.5-.1 2.5-.3 2.5-.1 2.5-.2 2.5-1 2.5-.7 2.5-.6 2.5-.7 2.5-.3 2.5-.4 2.6-.3 2.5-.1 2.5 .5 2.5-.7 2.5-.5 2.5-.4 2.5 .9 2.5-1.2 2.5-.3 2.5-.7 2.5 .3 2.5-.5 2.6 .1 2.5-1 2.5 .6 2.5 .6 2.5-.9 2.5-.8 2.5-.5 2.5 .1 2.5-.2 2.5 .5 2.5-.4 2.5 0 2.5-.1 2.6 .6 2.5 .7 2.5-.1 2.5-1 2.5-.7 2.5 .9 2.5-.3 2.5-1.1 2.5 .2" stroke="#d62728" stroke-width="0.5" fill="none" stroke-opacity="0.55" stroke-linejoin="round"/>
<path d="M171.5 412.8l2.5-.1 2.5 0 2.5-.3 2.5 0 2.5-.1 2.5-.2 2.5-.3 2.5-.3 2.5-.2 2.5-.1 2.5-.3 2.6 .2 2.5-.2 2.5 .1 2.5 0 2.5 0 2.5-.1 2.5 0 2.5-.1 2.5 .1 2.5 0 2.5-.1 2.5 .1 2.6 0 2.5-.2 2.5 .1 2.5-.1 2.5 0 2.5 0 2.5 0 2.5-.2 2.5 0 2.5-.1 2.5 .1 2.5 0 2.5-.1 2.6 .1 2.5 0 2.5-.1 2.5-.1 2.5 0 2.5 0 2.5 0 2.5 .1 2.5 0" stroke="#9467bd" stroke-width="0.5" fill="none" stroke-opacity="0.55" stroke-linejoin="round"/>
<path d="M171.5 403.2l2.5-.2 2.5 0 2.5-.1 2.5-.1 2.5 0 2.5-1 2.5-1.1 2.5-.3 2.5-.2 2.5-.1 2.5-.3 2.6 0 2.5-.2 2.5-.1 2.5 0 2.5-.4 2.5 .2 2.5 0 2.5-.2 2.5 0 2.5-.1 2.5-.3 2.5 .5 2.6-.6 2.5 .1 2.5-.3 2.5 0 2.5 .2 2.5-.2 2.5-.3 2.5 .1 2.5 0 2.5-.1 2.5 0 2.5 .3 2.5 .1 2.6-.1 2.5-.1 2.5-.1 2.5-.3 2.5-.1 2.5 0 2.5 .1 2.5-.1 2.5 0" stroke="#8c564b" stroke-width="0.5" fill="none" stroke-opacity="0.55" stroke-linejoin="round"/>
<path d="M171.5 394l2.5-.1 2.5-.4 2.5-.3 2.5-.7 2.5-.3 2.5-.1 2.5-.8 2.5 0 2.5-.2 2.5-.1 2.5-.6 2.6 .1 2.5-.1 2.5 0 2.5-.2 2.5-.1 2.5-.6 2.5 .5 2.5-.4 2.5-.2 2.5-.2 2.5 .4 2.5-.6 2.6 .1 2.5-.1 2.5 .1 2.5-.6 2.5-.7 2.5 .7 2.5 .4 2.5 .4 2.5-.5 2.5 0 2.5 .4 2.5-.5 2.5 .3 2.6 0 2.5-.3 2.5 .4 2.5-.5 2.5-.2 2.5 .3 2.5 0 2.5-.1 2.5 .1" stroke="#e377c2" stroke-width="0.5" fill="none" stroke-opacity="0.55" stroke-linejoin="round"/>
<path d="M171.5 371.2l2.5-1.1 2.5 0 2.5-.6 2.5-1.3 2.5 .1 2.5-2.3 2.5-2.8 2.5-.7 2.5-1.1 2.5-1.3 2.5 .3 2.6-.8 2.5-.8 2.5 .5 2.5 .7 2.5-.3 2.5-.1 2.5-.7 2.5 .7 2.5-1.2 2.5 .6 2.5-.4 2.5 1.3 2.6-1 2.5 .5 2.5-.4 2.5 .1 2.5 .9 2.5-1.5 2.5-.2 2.5-.2 2.5 .4 2.5-.1 2.5-.9 2.5 .4 2.5-.5 2.6-.3 2.5 .5 2.5 .1 2.5 .4 2.5 .5 2.5-.9 2.5-.1 2.5 .2 2.5 .5" stroke="#7f7f7f" stroke-width="0.5" fill="none" stroke-opacity="0.55" stroke-linejoin="round"/>
<path d="M171.5 364.5l2.5-.8 2.5 0 2.5 .3 2.5-1.3 2.5 .3 2.5-3 2.5-.9 2.5-.6 2.5-.1 2.5-.9 2.5-.2 2.6-.1 2.5 .1 2.5-1.8 2.5 2.1 2.5-.6 2.5-.5 2.5-.4 2.5-.5 2.5 1 2.5-1.5 2.5 1.7 2.5-1.1 2.6-.5 2.5-.2 2.5 .4 2.5-1.2 2.5 .6 2.5-.7 2.5 0 2.5-.8 2.5 0 2.5-.3 2.5-.1 2.5 .7 2.5-1.3 2.6 0 2.5 .1 2.5-1 2.5-.1 2.5-.5 2.5 .5 2.5 .8 2.5-.5 2.5 1.2" stroke="#bcbd22" stroke-width="0.5" fill="none" stroke-opacity="0.55" stroke-linejoin="round"/>
<path d="M171.5 408.1l2.5-.5 2.5 0 2.5 .2 2.5-.2 2.5-.2 2.5-.3 2.5-.2 2.5-.3 2.5-.1 2.5-.3 2.5-.3 2.6 .1 2.5-.2 2.5-.5 2.5-.1 2.5-.1 2.5 .1 2.5-.3 2.5 .1 2.5-.2 2.5-.1 2.5-.4 2.5 .1 2.6 .1 2.5 .1 2.5 0 2.5-.1 2.5-.2 2.5 .1 2.5 .1 2.5-.4 2.5 0 2.5 .1 2.5-.2 2.5 .1 2.5-.3 2.6 .1 2.5-.2 2.5-.2 2.5 0 2.5-.2 2.5 0 2.5 0 2.5-.2 2.5 .1" stroke="#17becf" stroke-width="0.5" fill="none" stroke-opacity="0.55" stroke-linejoin="round"/>
<path d="M171.5 388.2l2.5-.2 2.5-.6 2.5 .1 2.5-.6 2.5 .2 2.5-3.1 2.5-.5 2.5-1.3 2.5-1.3 2.5-.4 2.5-.3 2.6 .1 2.5-.2 2.5-.5 2.5-.1 2.5 .7 2.5-.6 2.5-.1 2.5-.5 2.5-.1 2.5-.7 2.5 .4 2.5-.7 2.6 0 2.5 .3 2.5-.9 2.5 .3 2.5-.5 2.5 .6 2.5-.5 2.5 0 2.5 .4 2.5-.2 2.5-1 2.5-.3 2.5-.4 2.6 .1 2.5-.9 2.5 .5 2.5-.4 2.5 .1 2.5 .3 2.5-.2 2.5 .5 2.5-.3" stroke="#1f77b4" stroke-width="0.5" fill="none" stroke-opacity="0.55" stroke-linejoin="round"/>
<path d="M171.5 364.1l2.5 1.3 2.5-.4 2.5-1.7 2.5-.4 2.5-1.3 2.5-2.4 2.5-1.5 2.5-.7 2.5-1.4 2.5-.8 2.5-.1 2.6-1.4 2.5-.5 2.5 1 2.5-1.2 2.5 1.8 2.5-.5 2.5 .6 2.5-.8 2.5 .1 2.5-.5 2.5 .4 2.5-.4 2.6 .4 2.5-.9 2.5-1.2 2.5 1.4 2.5-.6 2.5 .3 2.5 .7 2.5 .4 2.5 .4 2.5-1.1 2.5-.2 2.5 .2 2.5-.2 2.6-.4 2.5-.5 2.5-.2 2.5 .7 2.5 .6 2.5-1 2.5-.3 2.5-.7 2.5 .4" stroke="#ff7f0e" stroke-width="0.5" fill="none" stroke-opacity="0.55" stroke-linejoin="round"/>
<path d="M171.5 350.7l2.5-.5 2.5-.7 2.5 1.2 2.5-1.7 2.5 1.4 2.5-4.4 2.5-2.4 2.5-1.9 2.5-1.2 2.5-.5 2.5-.5 2.6-2.6 2.5 .7 2.5-.9 2.5-.7 2.5-.6 2.5-1.6 2.5 1.1 2.5-.4 2.5 1 2.5-.7 2.5-.7 2.5 .4 2.6-.8 2.5 .2 2.5-.6 2.5 .2 2.5-.7 2.5 .6 2.5-.5 2.5 0 2.5-.1 2.5-1.2 2.5 .7 2.5-1.1 2.5-.4 2.6-1.3 2.5 .5 2.5 0 2.5-1.4 2.5 1.1 2.5-.6 2.5 .6 2.5-.3 2.5 .1" stroke="#2ca02c" stroke-width="0.5" fill="none" stroke-opacity="0.55" stroke-linejoin="round"/>
<path d="M171.5 396.3l2.5 .3 2.5-.3 2.5-.7 2.5-.3 2.5 0 2.5-.7 2.5-.7 2.5-.2 2.5 .1 2.5-.8 2.5 .1 2.6 0 2.5 .1 2.5-.6 2.5 .3 2.5-.1 2.5-.3 2.5 .2 2.5-.1 2.5-.2 2.5 .1 2.5 .1 2.5-.3 2.6 .5 2.5-.2 2.5-.3 2.5 .3 2.5-.3 2.5 .3 2.5-.1 2.5 .3 2.5-.4 2.5 .3 2.5 0 2.5-.2 2.5 0 2.6 .6 2.5-.6 2.5 .4 2.5-.2 2.5 0 2.5-.2 2.5 .3 2.5-.2 2.5-.2" stroke="#d62728" stroke-width="0.5" fill="none" stroke-opacity="0.55" stroke-linejoin="round"/>
<path d="M171.5 395.4l2.5-.3 2.5 .1 2.5-.3 2.5-.4 2.5 .1 2.5-1.2 2.5-.8 2.5-.2 2.5-.4 2.5-.3 2.5-.2 2.6 .1 2.5-.8 2.5-.1 2.5-.1 2.5-.1 2.5-.1 2.5-.5 2.5 .4 2.5-.1 2.5 .1 2.5 .1 2.5 .2 2.6-.3 2.5 0 2.5-.4 2.5-.5 2.5 .8 2.5-1.2 2.5 .1 2.5 .1 2.5-.4 2.5-.1 2.5-.2 2.5-.3 2.5 .4 2.6 .1 2.5 0 2.5-.2 2.5 .1 2.5-.2 2.5 .2 2.5-.2 2.5 .1 2.5-.4" stroke="#9467bd" stroke-width="0.5" fill="none" stroke-opacity="0.55" stroke-linejoin="round"/>
<path d="M171.5 370l2.5-1 2.5 .1 2.5 .8 2.5-.5 2.5-.2 2.5-3.1 2.5-.5 2.5-2.1 2.5 0 2.5-.1 2.5-.5 2.6-.8 2.5-1.5 2.5 .4 2.5 .4 2.5-.3 2.5-1.1 2.5-.7 2.5 .3 2.5-.4 2.5-1.4 2.5 1.7 2.5-.4 2.6 .7 2.5-.2 2.5 .2 2.5-.8 2.5 .1 2.5 .4 2.5 .6 2.5-.6 2.5-.1 2.5-.4 2.5 .6 2.5-.2 2.5-.1 2.6-.1 2.5 .4 2.5-.7 2.5-.3 2.5 1.1 2.5-1.2 2.5 .9 2.5-.8 2.5-.4" stroke="#8c564b" stroke-width="0.5" fill="none" stroke-opacity="0.55" stroke-linejoin="round"/>
<path d="M171.5 408.1l2.5-.1 2.5-.2 2.5 .1 2.5-.1 2.5 0 2.5-.7 2.5-.3 2.5-.4 2.5-.2 2.5-.2 2.5-.2 2.6 0 2.5 0 2.5-.2 2.5-.3 2.5 .1 2.5 0 2.5 0 2.5 .1 2.5-.3 2.5-.1 2.5 .2 2.5-.2 2.6 0 2.5-.4 2.5 0 2.5 0 2.5-.1 2.5 .4 2.5-.2 2.5 .1 2.5 0 2.5-.1 2.5-.2 2.5 .2 2.5 .1 2.6-.1 2.5-.1 2.5-.1 2.5 0 2.5 0 2.5 0 2.5 0 2.5-.1 2.5 0" stroke="#e377c2" stroke-width="0.5" fill="none" stroke-opacity="0.55" stroke-linejoin="round"/>
<path d="M171.5 410.2l2.5-.5 2.5 .1 2.5-.1 2.5-.1 2.5 0 2.5-.7 2.5-.1 2.5-.4 2.5 0 2.5-.4 2.5 0 2.6 0 2.5 .1 2.5-.3 2.5-.1 2.5-.2 2.5 .2 2.5-.1 2.5 .3 2.5-.1 2.5-.2 2.5 0 2.5 .1 2.6-.2 2.5 .1 2.5 0 2.5-.4 2.5 0 2.5 0 2.5 0 2.5-.1 2.5 .1 2.5-.1 2.5-.2 2.5-.1 2.5 .1 2.6 0 2.5-.2 2.5 0 2.5-.2 2.5 0 2.5 .1 2.5 .1 2.5-.2 2.5 .3" stroke="#7f7f7f" stroke-width="0.5" fill="none" stroke-opacity="0.55" stroke-linejoin="round"/>
<path d="M171.5 393.9l2.5-.5 2.5 .2 2.5-.2 2.5-.1 2.5-.1 2.5-1 2.5-.8 2.5-.8 2.5-.3 2.5-.1 2.5-.6 2.6 .3 2.5-.4 2.5 .3 2.5 .1 2.5-.2 2.5 .3 2.5-.6 2.5 .4 2.5-.4 2.5-.2 2.5 .1 2.5-.1 2.6 .7 2.5-.9 2.5 0 2.5 .1 2.5-.4 2.5 .4 2.5 .1 2.5 .1 2.5-.9 2.5 .9 2.5-.8 2.5-.5 2.5 .3 2.6 .3 2.5-.2 2.5-.1 2.5 0 2.5 .3 2.5 .1 2.5-.1 2.5-.9 2.5 .4" stroke="#bcbd22" stroke-width="0.5" fill="none" stroke-opacity="0.55" stroke-linejoin="round"/>
<path d="M171.5 404.5l2.5 .1 2.5-.1 2.5-.3 2.5 .3 2.5-.2 2.5-1.3 2.5-.7 2.5-1 2.5-.5 2.5 0 2.5 0 2.6 0 2.5 .1 2.5-.1 2.5-.2 2.5-.2 2.5 .3 2.5 .2 2.5 0 2.5 .1 2.5 .1 2.5 .2 2.5 .1 2.6-.1 2.5 .5 2.5-.3 2.5 .1 2.5-.1 2.5 .2 2.5-.1 2.5-.3 2.5 0 2.5-.2 2.5 .1 2.5 .2 2.5-.2 2.6 .3 2.5-.6 2.5 0 2.5 .2 2.5 0 2.5-.5 2.5 .3 2.5-.3 2.5 .1" stroke="#17becf" stroke-width="0.5" fill="none" stroke-opacity="0.55" stroke-linejoin="round"/>
<path d="M171.5 399.6l2.5-.4 2.5 .3 2.5-.5 2.5-.2 2.5 .1 2.5-1 2.5-.6 2.5-.5 2.5-.4 2.5-.1 2.5-.1 2.6-.2 2.5-.2 2.5-.3 2.5 .1 2.5 .3 2.5 0 2.5 .1 2.5-.1 2.5-.1 2.5-.2 2.5 0 2.5 .5 2.6-.2 2.5 .3 2.5-.4 2.5 0 2.5-.5 2.5 .3 2.5 .4 2.5-.2 2.5 .2 2.5 .1 2.5-.1 2.5-.1 2.5-.1 2.6-.2 2.5-.1 2.5 .4 2.5-.1 2.5 0 2.5 .2 2.5 0 2.5-.1 2.5 0" stroke="#1f77b4" stroke-width="0.5" fill="none" stroke-opacity="0.55" stroke-linejoin="round"/>
<path d="M171.5 378.5l2.5 .1 2.5-.1 2.5-.3 2.5-.9 2.5 .4 2.5-3.2 2.5-.7 2.5-.6 2.5-1.5 2.5 .3 2.5-.8 2.6-.1 2.5-1.5 2.5-.1 2.5-.1 2.5 .4 2.5-.2 2.5 .5 2.5-.6 2.5-.2 2.5 .1 2.5 .5 2.5-.6 2.6 .9 2.5-.7 2.5 0 2.5 .3 2.5 .4 2.5 0 2.5 .8 2.5-.6 2.5 .2 2.5-.4 2.5 0 2.5-.3 2.5 .8 2.6-.5 2.5-.1 2.5-.1 2.5-.1 2.5-.4 2.5-.1 2.5 .3 2.5-.6 2.5-.1" stroke="#ff7f0e" stroke-width="0.5" fill="none" stroke-opacity="0.55" stroke-linejoin="round"/>
<path d="M171.5 396.4l2.5 .4 2.5-.1 2.5-.4 2.5-.1 2.5-.3 2.5-.5 2.5-.4 2.5-.4 2.5 .1 2.5-.4 2.5-.4 2.6-.1 2.5-.1 2.5-.4 2.5 0 2.5-.2 2.5 .2 2.5-.2 2.5 0 2.5-.4 2.5 0 2.5-.5 2.5-.3 2.6-.2 2.5 .1 2.5 .1 2.5-.3 2.5 .4 2.5-.2 2.5 0 2.5-.8 2.5-.2 2.5 .5 2.5 .1 2.5-.4 2.5-.4 2.6-.2 2.5 .2 2.5 .4 2.5-.7 2.5 0 2.5 .2 2.5-.4 2.5 .1 2.5-.1" stroke="#2ca02c" stroke-width="0.5" fill="none" stroke-opacity="0.55" stroke-linejoin="round"/>
<path d="M171.5 385.8l2.5-.1 2.5-.2 2.5-.5 2.5 .1 2.5-.9 2.5-1.8 2.5-1.8 2.5 .2 2.5-1.3 2.5-1.1 2.5-.1 2.6-.6 2.5-.2 2.5-.2 2.5 0 2.5-.8 2.5 0 2.5 0 2.5-.4 2.5 .6 2.5-.3 2.5-.1 2.5-.4 2.6 .4 2.5-.1 2.5-.5 2.5 0 2.5-.2 2.5 .3 2.5-.5 2.5-.1 2.5 .5 2.5-.8 2.5 .2 2.5 .7 2.5-.7 2.6 .2 2.5-.6 2.5-.7 2.5-.1 2.5-.2 2.5-.8 2.5 .1 2.5 .1 2.5 .1" stroke="#d62728" stroke-width="0.5" fill="none" stroke-opacity="0.55" stroke-linejoin="round"/>
<path d="M171.5 377.2l2.5-.4 2.5 .5 2.5-1.1 2.5 0 2.5-.7 2.5-.6 2.5-.9 2.5-.7 2.5 0 2.5-.7 2.5 0 2.6 .5 2.5-.2 2.5 .9 2.5 .3 2.5-.8 2.5 .4 2.5 .4 2.5-.9 2.5-.4 2.5 .3 2.5-.1 2.5-.5 2.6-.2 2.5-.1 2.5 0 2.5-.9 2.5 .1 2.5 .6 2.5 0 2.5-.3 2.5-.1 2.5-.2 2.5-.7 2.5-.1 2.5 .2 2.6 .1 2.5 .7 2.5-.2 2.5-.6 2.5 .7 2.5-.8 2.5 .5 2.5 .3 2.5 0" stroke="#9467bd" stroke-width="0.5" fill="none" stroke-opacity="0.55" stroke-linejoin="round"/>
<path d="M171.5 404.7l2.5-.4 2.5 0 2.5-.1 2.5 .2 2.5-.5 2.5 0 2.5-.7 2.5 0 2.5-.4 2.5-.1 2.5-.2 2.6 .2 2.5 .2 2.5-.3 2.5 .2 2.5 .1 2.5-.1 2.5 .1 2.5 0 2.5 0 2.5-.3 2.5 0 2.5 .2 2.6-.2 2.5 0 2.5-.1 2.5 .2 2.5 .1 2.5 .1 2.5 0 2.5 0 2.5-.1 2.5 .2 2.5 0 2.5 0 2.5 0 2.6 0 2.5-.1 2.5 .2 2.5 0 2.5 .3 2.5-.2 2.5 0 2.5-.3 2.5 0" stroke="#8c564b" stroke-width="0.5" fill="none" stroke-opacity="0.55" stroke-linejoin="round"/>
<path d="M171.5 371.1l2.5-.3 2.5-.2 2.5-.8 2.5-.8 2.5 .6 2.5-1.9 2.5-.9 2.5-.9 2.5 .1 2.5 .2 2.5 .1 2.6-.3 2.5 .1 2.5-.6 2.5-1 2.5 .2 2.5-.2 2.5 0 2.5 0 2.5-.6 2.5 0 2.5 1 2.5 .2 2.6-1.1 2.5 .6 2.5-.9 2.5 .2 2.5-.8 2.5 .5 2.5 .4 2.5 .4 2.5-1.2 2.5-.1 2.5 .4 2.5-.5 2.5 .1 2.6-.3 2.5-.1 2.5-.3 2.5-.4 2.5 .6 2.5-.1 2.5-.5 2.5 .5 2.5-1.7" stroke="#e377c2" stroke-width="0.5" fill="none" stroke-opacity="0.55" stroke-linejoin="round"/>
<path d="M171.5 392.2l2.5-.2 2.5 0 2.5-.6 2.5 .1 2.5-.3 2.5-1.4 2.5-1.4 2.5-.4 2.5-.7 2.5-.5 2.5-.7 2.6-.3 2.5 .8 2.5-.4 2.5 .1 2.5-.9 2.5-.4 2.5 .1 2.5-.2 2.5-.5 2.5 .1 2.5 .1 2.5 .5 2.6-.5 2.5-.2 2.5 .2 2.5-.9 2.5-.2 2.5 .1 2.5-.2 2.5 .3 2.5-.7 2.5 .1 2.5-.3 2.5 .3 2.5-.3 2.6-.2 2.5-.7 2.5 .6 2.5-.2 2.5-.6 2.5 .3 2.5 .1 2.5-.1 2.5 .3" stroke="#7f7f7f" stroke-width="0.5" fill="none" stroke-opacity="0.55" stroke-linejoin="round"/>
<path d="M171.5 392.2l2.5-.9 2.5-.3 2.5 .2 2.5-.2 2.5-.2 2.5-1.5 2.5-1.3 2.5-.5 2.5-.8 2.5 .1 2.5-.6 2.6 .1 2.5-.1 2.5-.5 2.5 1 2.5-.7 2.5 .2 2.5-.2 2.5 0 2.5 .1 2.5 .1 2.5 .1 2.5-1.3 2.6 .1 2.5 .2 2.5 0 2.5-.7 2.5-.3 2.5-.1 2.5 .5 2.5-.8 2.5-.4 2.5-.1 2.5-.3 2.5 .5 2.5-.1 2.6 .3 2.5-1.1 2.5-.1 2.5 .1 2.5 .1 2.5-.6 2.5 .6 2.5 0 2.5-.2" stroke="#bcbd22" stroke-width="0.5" fill="none" stroke-opacity="0.55" stroke-linejoin="round"/>
<path d="M171.5 408.5l2.5-.6 2.5 .2 2.5-.1 2.5 0 2.5 0 2.5-.4 2.5 0 2.5-.2 2.5-.1 2.5-.1 2.5 .1 2.6 0 2.5-.1 2.5 .3 2.5 .1 2.5 0 2.5 0 2.5 .1 2.5 .4 2.5-.2 2.5 0 2.5-.4 2.5 0 2.6 .2 2.5-.1 2.5 .3 2.5-.1 2.5-.3 2.5 .1 2.5-.2 2.5 .2 2.5-.2 2.5 .1 2.5 0 2.5 .1 2.5-.1 2.6-.1 2.5 .2 2.5 0 2.5-.1 2.5 .2 2.5-.1 2.5-.2 2.5 .1 2.5 .1" stroke="#17becf" stroke-width="0.5" fill="none" stroke-opacity="0.55" stroke-linejoin="round"/>
<path d="M171.5 389.1l2.5-.1 2.5-.9 2.5 0 2.5-.1 2.5 .2 2.5-1.6 2.5-.9 2.5-.1 2.5-1.5 2.5 .2 2.5-.2 2.6 .1 2.5-.4 2.5-.3 2.5-.6 2.5 .6 2.5 .4 2.5-.3 2.5 .4 2.5-.2 2.5 .8 2.5-.4 2.5-.3 2.6-.4 2.5 .1 2.5 .5 2.5-.4 2.5 .3 2.5 0 2.5 .8 2.5-.4 2.5 0 2.5-.6 2.5 .3 2.5 .3 2.5 0 2.6-.1 2.5-.1 2.5 .3 2.5-.2 2.5-.2 2.5 0 2.5-.4 2.5 .4 2.5-.3" stroke="#1f77b4" stroke-width="0.5" fill="none" stroke-opacity="0.55" stroke-linejoin="round"/>
<path d="M171.5 392.7l2.5 0 2.5 .3 2.5-.5 2.5 0 2.5-1.1 2.5-.4 2.5-.9 2.5-.3 2.5-.1 2.5 .1 2.5-.4 2.6-.2 2.5-.2 2.5-.3 2.5-.4 2.5 .2 2.5-.4 2.5 0 2.5 .2 2.5 .1 2.5 .1 2.5 0 2.5-.3 2.6-.1 2.5 .5 2.5 .3 2.5-.6 2.5-.2 2.5 .3 2.5-.2 2.5-.2 2.5 .4 2.5-.6 2.5-.3 2.5-.4 2.5-.4 2.6 .6 2.5-.6 2.5-.6 2.5 .7 2.5-.3 2.5-.4 2.5 .3 2.5 .3 2.5-.7" stroke="#ff7f0e" stroke-width="0.5" fill="none" stroke-opacity="0.55" stroke-linejoin="round"/>
<path d="M171.5 386.3l2.5-.4 2.5 .1 2.5-.6 2.5 0 2.5 .1 2.5-.4 2.5-.9 2.5-.6 2.5-.6 2.5-.1 2.5 .3 2.6-.6 2.5 .7 2.5-.5 2.5 .1 2.5-.1 2.5 0 2.5-.4 2.5-.1 2.5-.1 2.5 .2 2.5 .1 2.5 .6 2.6-.3 2.5-1.3 2.5 .4 2.5 .5 2.5-.6 2.5 0 2.5 .9 2.5-.5 2.5-.3 2.5-.1 2.5 .4 2.5 .2 2.5 .2 2.6 0 2.5-.2 2.5-.6 2.5 .8 2.5-.5 2.5 .5 2.5-.2 2.5 0 2.5-.3" stroke="#2ca02c" stroke-width="0.5" fill="none" stroke-opacity="0.55" stroke-linejoin="round"/>
<path d="M171.5 364.6l2.5-1.8 2.5-.6 2.5-.4 2.5 .3 2.5 .1 2.5-4.6 2.5-1.2 2.5-2.3 2.5-1 2.5-1.5 2.5 .7 2.6 .4 2.5-.9 2.5-.7 2.5 1.5 2.5 .3 2.5-1.4 2.5 .9 2.5 .3 2.5-.1 2.5-.3 2.5 .3 2.5-.1 2.6 .2 2.5 1.3 2.5 .1 2.5 .9 2.5 .3 2.5-1 2.5 .4 2.5-.4 2.5 0 2.5 .1 2.5-.2 2.5 .3 2.5-.3 2.6 1.1 2.5-1.3 2.5 .9 2.5-1.1 2.5 .4 2.5 0 2.5 .1 2.5-.2 2.5 .4" stroke="#d62728" stroke-width="0.5" fill="none" stroke-opacity="0.55" stroke-linejoin="round"/>
<path d="M171.5 384l2.5-.4 2.5-.2 2.5-.4 2.5 0 2.5-.2 2.5-2 2.5-.8 2.5-1 2.5-.8 2.5-.3 2.5-.2 2.6-1.6 2.5 .7 2.5-.3 2.5 .3 2.5-1.4 2.5 1.2 2.5-.9 2.5-.2 2.5 .1 2.5 .2 2.5 .6 2.5-.6 2.6 0 2.5 .4 2.5 .1 2.5 .4 2.5-.3 2.5 .4 2.5-.4 2.5 .1 2.5 0 2.5 .2 2.5 .3 2.5-.9 2.5 .1 2.6 .7 2.5 .2 2.5-.4 2.5-.2 2.5-.4 2.5 .5 2.5 .1 2.5-.5 2.5 .6" stroke="#9467bd" stroke-width="0.5" fill="none" stroke-opacity="0.55" stroke-linejoin="round"/>
<path d="M171.5 389.4l2.5 0 2.5-.2 2.5-.3 2.5-.5 2.5-.4 2.5-1.1 2.5-1 2.5-.5 2.5-.3 2.5-.8 2.5-.3 2.6 .2 2.5 .3 2.5-.2 2.5 .5 2.5-.2 2.5-.1 2.5 .1 2.5-.2 2.5 .5 2.5-.6 2.5 .3 2.5-.3 2.6 .2 2.5-.3 2.5 .3 2.5 .1 2.5-.4 2.5 .3 2.5 .2 2.5 0 2.5-.1 2.5-.2 2.5 0 2.5 .7 2.5-.4 2.6 .5 2.5-.2 2.5 .2 2.5 .1 2.5-.3 2.5 .6 2.5-.2 2.5-.2 2.5 .8" stroke="#8c564b" stroke-width="0.5" fill="none" stroke-opacity="0.55" stroke-linejoin="round"/>
<path d="M171.5 413.5l2.5 .1 2.5 0 2.5-.1 2.5 0 2.5 0 2.5-.5 2.5-.2 2.5-.1 2.5 0 2.5-.2 2.5-.1 2.6 0 2.5-.1 2.5 0 2.5 0 2.5 0 2.5-.1 2.5-.1 2.5 .2 2.5 0 2.5 .2 2.5-.2 2.5 .1 2.6-.1 2.5 .1 2.5-.1 2.5 0 2.5 .1 2.5 .1 2.5 0 2.5-.2 2.5 .1 2.5 0 2.5-.1 2.5 0 2.5 0 2.6 .2 2.5-.1 2.5-.1 2.5 0 2.5 0 2.5 .1 2.5 0 2.5-.2 2.5 .1" stroke="#e377c2" stroke-width="0.5" fill="none" stroke-opacity="0.55" stroke-linejoin="round"/>
<path d="M171.5 370.4l2.5-.6 2.5-.9 2.5-.4 2.5 .4 2.5 0 2.5-3.3 2.5-.9 2.5 .5 2.5-1 2.5-1.1 2.5 .6 2.6-.5 2.5 .5 2.5-.3 2.5-.1 2.5 1 2.5-.9 2.5 .8 2.5 .5 2.5-.1 2.5 .2 2.5 .3 2.5 .2 2.6-.9 2.5-.2 2.5 .6 2.5 .3 2.5 1 2.5 0 2.5-.8 2.5 1.2 2.5-.8 2.5 .6 2.5 .2 2.5 .9 2.5 .2 2.6-.4 2.5-.3 2.5 .9 2.5 .1 2.5-.5 2.5 1 2.5 .1 2.5-.1 2.5 .1" stroke="#7f7f7f" stroke-width="0.5" fill="none" stroke-opacity="0.55" stroke-linejoin="round"/>
<path d="M171.5 414.1l2.5 .1 2.5-.2 2.5-.1 2.5 0 2.5-.1 2.5-.2 2.5-.2 2.5-.2 2.5 0 2.5-.1 2.5-.1 2.6 .1 2.5-.1 2.5 .2 2.5-.2 2.5 0 2.5 0 2.5 0 2.5-.1 2.5 0 2.5 0 2.5 0 2.5-.1 2.6 .1 2.5 0 2.5 0 2.5 0 2.5-.1 2.5-.1 2.5-.1 2.5 0 2.5 .1 2.5-.1 2.5 0 2.5-.2 2.5 .1 2.6 0 2.5 .1 2.5 0 2.5 0 2.5-.1 2.5 .1 2.5 0 2.5-.1 2.5 0" stroke="#bcbd22" stroke-width="0.5" fill="none" stroke-opacity="0.55" stroke-linejoin="round"/>
<path d="M171.5 406.5l2.5-.2 2.5-.2 2.5-.1 2.5-.1 2.5 .1 2.5-.8 2.5-.6 2.5 0 2.5-.6 2.5-.1 2.5 .3 2.6-.2 2.5-.2 2.5-.1 2.5 .1 2.5 .1 2.5-.1 2.5 0 2.5 .3 2.5-.3 2.5-.2 2.5 .1 2.5 .1 2.6 0 2.5-.1 2.5-.1 2.5-.2 2.5 .2 2.5-.2 2.5-.1 2.5-.1 2.5 .1 2.5 .2 2.5 .1 2.5 0 2.5-.1 2.6-.3 2.5 .1 2.5-.1 2.5 .3 2.5 .1 2.5-.1 2.5-.1 2.5-.2 2.5 0" stroke="#17becf" stroke-width="0.5" fill="none" stroke-opacity="0.55" stroke-linejoin="round"/>
<path d="M171.5 400.3l2.5-.3 2.5 .1 2.5-.5 2.5 .1 2.5-.1 2.5-1.4 2.5-.7 2.5-.3 2.5-.1 2.5-.4 2.5-.3 2.6-.1 2.5-.1 2.5 .3 2.5-.2 2.5 .1 2.5 0 2.5-.2 2.5 .1 2.5-.4 2.5 .2 2.5 .1 2.5 .1 2.6 .1 2.5-.4 2.5 .1 2.5-.4 2.5 .1 2.5 .4 2.5 .2 2.5 .4 2.5-.3 2.5-.2 2.5 .2 2.5-.4 2.5-.1 2.6 .1 2.5-.1 2.5 .4 2.5-.3 2.5 .4 2.5 0 2.5 0 2.5-.1 2.5 .2" stroke="#1f77b4" stroke-width="0.5" fill="none" stroke-opacity="0.55" stroke-linejoin="round"/>
<path d="M171.5 374.1l2.5 0 2.5-1 2.5-.2 2.5-.4 2.5-.8 2.5-2.8 2.5-.8 2.5 .1 2.5-.5 2.5-1.1 2.5 .8 2.6-.8 2.5-.1 2.5-.4 2.5-.1 2.5-.6 2.5 .1 2.5 .3 2.5-.8 2.5 .5 2.5-.2 2.5-1.5 2.5-.1 2.6 .6 2.5-.3 2.5-.8 2.5 .2 2.5-.6 2.5 .5 2.5 .1 2.5-.3 2.5 .4 2.5-.4 2.5 1.1 2.5-.1 2.5-.3 2.6 .3 2.5-1.1 2.5 .2 2.5-.5 2.5 .9 2.5-1.2 2.5 .4 2.5 1 2.5-1.1" stroke="#ff7f0e" stroke-width="0.5" fill="none" stroke-opacity="0.55" stroke-linejoin="round"/>
<path d="M171.5 384.7l2.5-.6 2.5-.3 2.5 .2 2.5-.5 2.5-.9 2.5-.6 2.5-.7 2.5-.8 2.5-.3 2.5 .6 2.5-1.4 2.6 .1 2.5 .4 2.5 0 2.5-.5 2.5 1 2.5-.2 2.5 .3 2.5-.1 2.5-.5 2.5 .6 2.5-.2 2.5 .2 2.6 .2 2.5-.1 2.5 .7 2.5-.6 2.5 .1 2.5 .9 2.5-.8 2.5 .1 2.5-.2 2.5 .4 2.5-.1 2.5-.2 2.5-.7 2.6-.4 2.5 .7 2.5 .1 2.5-.1 2.5 .1 2.5 .1 2.5 .4 2.5-.1 2.5 .2" stroke="#2ca02c" stroke-width="0.5" fill="none" stroke-opacity="0.55" stroke-linejoin="round"/>
<path d="M171.5 390l2.5-.2 2.5-.1 2.5-.5 2.5 .2 2.5-.5 2.5-.4 2.5-.9 2.5-.9 2.5-.5 2.5 .1 2.5-.5 2.6-.9 2.5-.2 2.5-.3 2.5 .2 2.5 .3 2.5-.9 2.5 .2 2.5-.3 2.5-.9 2.5 .6 2.5-.7 2.5 .1 2.6 .3 2.5-.7 2.5 0 2.5-.7 2.5-.4 2.5 .5 2.5-.8 2.5 .4 2.5-.6 2.5-.2 2.5 .2 2.5-.6 2.5-.1 2.6 0 2.5-.3 2.5 .5 2.5-.6 2.5 .5 2.5-.1 2.5 0 2.5-.3 2.5-.1" stroke="#d62728" stroke-width="0.5" fill="none" stroke-opacity="0.55" stroke-linejoin="round"/>
<path d="M171.5 394.5l2.5-.3 2.5-.5 2.5 0 2.5-.8 2.5-.2 2.5-1.2 2.5-1.3 2.5-.2 2.5-.5 2.5-.6 2.5 .6 2.6-.5 2.5-.5 2.5 .8 2.5-1.3 2.5 .8 2.5-.1 2.5 0 2.5 0 2.5-.2 2.5 .3 2.5-.7 2.5-.1 2.6 .4 2.5-.1 2.5-.2 2.5 .1 2.5 .3 2.5-.2 2.5 0 2.5-.3 2.5 .1 2.5-.3 2.5 0 2.5 .2 2.5-.6 2.6-.4 2.5 0 2.5 .1 2.5-.3 2.5 .4 2.5 .6 2.5-.5 2.5 .6 2.5 0" stroke="#9467bd" stroke-width="0.5" fill="none" stroke-opacity="0.55" stroke-linejoin="round"/>
<path d="M171.5 372.1l2.5-.3 2.5-1 2.5 1.6 2.5-1.3 2.5 .3 2.5-3.2 2.5-.3 2.5-.6 2.5 .2 2.5 0 2.5-.5 2.6 .1 2.5 .8 2.5-1.3 2.5 .1 2.5 0 2.5-.1 2.5-.7 2.5 .9 2.5 0 2.5-.9 2.5-.5 2.5 .9 2.6 .3 2.5 .6 2.5-.6 2.5 0 2.5-.4 2.5 .9 2.5 .1 2.5 .5 2.5-.6 2.5 .7 2.5 .2 2.5-.2 2.5 .1 2.6-.1 2.5 .3 2.5-1.4 2.5-.1 2.5 1 2.5-.6 2.5 0 2.5-.8 2.5 .6" stroke="#8c564b" stroke-width="0.5" fill="none" stroke-opacity="0.55" stroke-linejoin="round"/>
<path d="M171.5 392.5l2.5 .8 2.5-.1 2.5-.4 2.5-.3 2.5-.4 2.5-1.2 2.5-.6 2.5-1 2.5-.5 2.5-.1 2.5-.4 2.6 .4 2.5-.3 2.5-.1 2.5-.4 2.5 .2 2.5-.2 2.5 .3 2.5-.2 2.5-.3 2.5-.7 2.5 .1 2.5 .2 2.6 .3 2.5 0 2.5-.4 2.5-.5 2.5-.5 2.5-.2 2.5 .1 2.5-.4 2.5 0 2.5-.6 2.5 .1 2.5 .1 2.5 .2 2.6 0 2.5-.6 2.5 .4 2.5-.2 2.5 .3 2.5 .2 2.5 0 2.5 .2 2.5 .1" stroke="#e377c2" stroke-width="0.5" fill="none" stroke-opacity="0.55" stroke-linejoin="round"/>
<path d="M171.5 402l2.5-.3 2.5 0 2.5 0 2.5-.2 2.5-.2 2.5-.3 2.5-.2 2.5-.2 2.5-.4 2.5-.2 2.5 .1 2.6 .2 2.5-.2 2.5-.1 2.5 .1 2.5 0 2.5-.2 2.5 0 2.5-.4 2.5 .1 2.5 .1 2.5-.5 2.5 .2 2.6-.2 2.5 .1 2.5 .1 2.5 0 2.5 .1 2.5 .3 2.5-.2 2.5-.5 2.5 .3 2.5-.2 2.5 0 2.5 .2 2.5 0 2.6 0 2.5 0 2.5 .1 2.5 0 2.5 0 2.5 .1 2.5 .1 2.5-.3 2.5-.2" stroke="#7f7f7f" stroke-width="0.5" fill="none" stroke-opacity="0.55" stroke-linejoin="round"/>
<path d="M171.5 403.5l2.5-.2 2.5-.2 2.5-.2 2.5 .1 2.5-.1 2.5-.6 2.5-.3 2.5-.2 2.5 0 2.5-.5 2.5 0 2.6-.5 2.5 .5 2.5-.1 2.5-.1 2.5-.2 2.5 0 2.5-.2 2.5 0 2.5 .1 2.5 .1 2.5 0 2.5 0 2.6 .1 2.5 .1 2.5 .1 2.5-.1 2.5 .1 2.5-.4 2.5-.1 2.5 .6 2.5-.3 2.5-.2 2.5 .2 2.5-.3 2.5 .3 2.6 0 2.5 0 2.5 .1 2.5 0 2.5 0 2.5 .1 2.5 .2 2.5 .2 2.5 0" stroke="#bcbd22" stroke-width="0.5" fill="none" stroke-opacity="0.55" stroke-linejoin="round"/>
<path d="M171.5 374.7l2.5 .4 2.5-.6 2.5-1.2 2.5-.4 2.5-.4 2.5-3.3 2.5-2.9 2.5-.8 2.5 .2 2.5-1.8 2.5 .4 2.6-.4 2.5-.7 2.5-.3 2.5 .6 2.5-.1 2.5-.6 2.5 1.1 2.5-.5 2.5 .3 2.5-.6 2.5-.3 2.5 .9 2.6 .1 2.5-.4 2.5-.7 2.5 .5 2.5 .2 2.5-.6 2.5 .5 2.5-.5 2.5 .3 2.5 .3 2.5-.6 2.5 .9 2.5-.1 2.6-.4 2.5 .6 2.5 .1 2.5-.4 2.5 .1 2.5 0 2.5 .4 2.5-.5 2.5 0" stroke="#17becf" stroke-width="0.5" fill="none" stroke-opacity="0.55" stroke-linejoin="round"/>
<path d="M171.5 383.7l2.5-.9 2.5-.4 2.5 .6 2.5-.2 2.5-.4 2.5-2.2 2.5-.5 2.5-1.5 2.5-.3 2.5-.1 2.5-1.1 2.6 .2 2.5-.3 2.5-.3 2.5-.6 2.5-.5 2.5-.3 2.5 .9 2.5-1.5 2.5 1.1 2.5-.7 2.5-.3 2.5-.2 2.6-.6 2.5 .4 2.5-.4 2.5-.9 2.5 .1 2.5-.2 2.5-.6 2.5 .4 2.5-.7 2.5 .4 2.5-.2 2.5-.2 2.5 .2 2.6-.5 2.5-.5 2.5-.5 2.5-.1 2.5-.1 2.5-.2 2.5 .5 2.5 0 2.5-.3" stroke="#1f77b4" stroke-width="0.5" fill="none" stroke-opacity="0.55" stroke-linejoin="round"/>
<path d="M171.5 397l2.5-.6 2.5-.5 2.5 .7 2.5-.5 2.5 0 2.5-1.2 2.5-1 2.5-.3 2.5-.4 2.5 .1 2.5-.4 2.6-.1 2.5-.2 2.5-.2 2.5-.1 2.5 .5 2.5-.1 2.5-.3 2.5-.3 2.5 .4 2.5-.5 2.5 .6 2.5 0 2.6 .1 2.5-.4 2.5-.3 2.5 .3 2.5 .1 2.5 0 2.5-.4 2.5 .4 2.5-.4 2.5 .1 2.5 .2 2.5 .3 2.5 .4 2.6-.4 2.5 .7 2.5 0 2.5-.6 2.5 .6 2.5 .2 2.5 .2 2.5-.5 2.5-.1" stroke="#ff7f0e" stroke-width="0.5" fill="none" stroke-opacity="0.55" stroke-linejoin="round"/>
<path d="M171.5 385.4l2.5-.1 2.5-.3 2.5-.1 2.5-.3 2.5-1.4 2.5-.5 2.5-.2 2.5-.3 2.5 .1 2.5-.7 2.5 0 2.6-.1 2.5 .7 2.5-.9 2.5-.2 2.5 .8 2.5-.1 2.5-.1 2.5-.4 2.5-.3 2.5 .2 2.5-.5 2.5 .1 2.6-.3 2.5 .3 2.5 .1 2.5-.6 2.5 .1 2.5 .3 2.5-.8 2.5-.6 2.5 1 2.5-1 2.5-.3 2.5 .7 2.5-.7 2.6 .2 2.5 .2 2.5-.6 2.5-.2 2.5 .8 2.5-.5 2.5-.3 2.5 .5 2.5-.8" stroke="#2ca02c" stroke-width="0.5" fill="none" stroke-opacity="0.55" stroke-linejoin="round"/>
<path d="M171.5 398l2.5 0 2.5-.3 2.5-.5 2.5 .2 2.5-.3 2.5-1.6 2.5-.4 2.5-1.2 2.5-.3 2.5-.2 2.5 .1 2.6-.4 2.5-.2 2.5-.1 2.5-.5 2.5 .1 2.5-.5 2.5 .3 2.5-.3 2.5 .2 2.5-.2 2.5-.1 2.5-.1 2.6 0 2.5-.3 2.5 .2 2.5-.5 2.5 .4 2.5-.2 2.5-.3 2.5 .2 2.5-.1 2.5-.5 2.5-.3 2.5 .1 2.5-.5 2.6 .2 2.5-.1 2.5-.3 2.5 .2 2.5-.1 2.5-.4 2.5 .5 2.5-.1 2.5-.2" stroke="#d62728" stroke-width="0.5" fill="none" stroke-opacity="0.55" stroke-linejoin="round"/>
<path d="M171.5 386.3l2.5 .5 2.5-.7 2.5 .4 2.5-.8 2.5-.3 2.5-1 2.5-1.4 2.5-.9 2.5-.5 2.5-1.3 2.5 .4 2.6-.4 2.5 .1 2.5-.9 2.5-.3 2.5-.6 2.5 .3 2.5-.1 2.5-.8 2.5 .6 2.5-.6 2.5-.3 2.5 .6 2.6 .7 2.5-.1 2.5-.2 2.5-.9 2.5 .3 2.5-.6 2.5 .3 2.5 .1 2.5 .1 2.5-.3 2.5-.5 2.5 .2 2.5-.1 2.6 .7 2.5 .1 2.5-.9 2.5 .7 2.5-.5 2.5-.1 2.5 .1 2.5 .3 2.5 0" stroke="#9467bd" stroke-width="0.5" fill="none" stroke-opacity="0.55" stroke-linejoin="round"/>
<path d="M171.5 405.2l2.5-.1 2.5-.4 2.5 0 2.5-.1 2.5-.1 2.5-.4 2.5-.7 2.5-.3 2.5-.5 2.5 .1 2.5-.1 2.6-.2 2.5-.3 2.5 .3 2.5-.4 2.5 .4 2.5-.1 2.5 .2 2.5-.3 2.5 .1 2.5 0 2.5-.2 2.5 0 2.6 .2 2.5-.1 2.5 .3 2.5-.3 2.5 .4 2.5-.5 2.5 .3 2.5 .4 2.5-.3 2.5 .2 2.5-.1 2.5 .1 2.5-.2 2.6 .3 2.5-.3 2.5-.1 2.5 .4 2.5-.2 2.5 .2 2.5 .1 2.5 .1 2.5-.2" stroke="#8c564b" stroke-width="0.5" fill="none" stroke-opacity="0.55" stroke-linejoin="round"/>
<path d="M171.5 395.6l2.5 .1 2.5-.6 2.5 .1 2.5-.3 2.5 0 2.5-2 2.5-1 2.5-.9 2.5-1 2.5-.3 2.5 0 2.6-.4 2.5 .3 2.5-.1 2.5-.3 2.5-.1 2.5-.1 2.5-.2 2.5 0 2.5 0 2.5-.1 2.5 0 2.5-.2 2.6 .1 2.5 .3 2.5-.5 2.5 0 2.5 .3 2.5 .3 2.5-.3 2.5 .1 2.5-.3 2.5 .5 2.5-.4 2.5 .5 2.5-.1 2.6-.5 2.5 .1 2.5-.1 2.5 0 2.5-.3 2.5 .2 2.5 0 2.5 .1 2.5-.1" stroke="#e377c2" stroke-width="0.5" fill="none" stroke-opacity="0.55" stroke-linejoin="round"/>
<path d="M171.5 389.8l2.5-.9 2.5-.8 2.5 .3 2.5 .4 2.5-1.2 2.5-2.2 2.5-1.1 2.5-1.2 2.5-.7 2.5-.4 2.5-.5 2.6-.2 2.5-.1 2.5-.3 2.5-.4 2.5 0 2.5-.7 2.5 .2 2.5-.3 2.5 0 2.5-.1 2.5-.4 2.5 .1 2.6 .5 2.5 .3 2.5 0 2.5-.8 2.5 .2 2.5 0 2.5-.7 2.5 .3 2.5-.8 2.5 .1 2.5-.2 2.5 .5 2.5-.7 2.6 .5 2.5 .6 2.5-.6 2.5-.2 2.5 .2 2.5 .2 2.5-.4 2.5 .2 2.5 0" stroke="#7f7f7f" stroke-width="0.5" fill="none" stroke-opacity="0.55" stroke-linejoin="round"/>
<path d="M171.5 398.5l2.5-.5 2.5 .2 2.5-.3 2.5 .2 2.5-.2 2.5-.3 2.5-.3 2.5-.6 2.5 .3 2.5 0 2.5-.5 2.6 .2 2.5-.2 2.5-.2 2.5-.4 2.5 .1 2.5 .1 2.5-.5 2.5 .2 2.5-.1 2.5-.3 2.5 .4 2.5-.5 2.6 .2 2.5 0 2.5 .2 2.5-.2 2.5-.3 2.5 0 2.5-.3 2.5 .4 2.5 0 2.5 .2 2.5 0 2.5-.2 2.5-.1 2.6-.5 2.5 .2 2.5 .3 2.5 .1 2.5-.3 2.5 .2 2.5-.5 2.5 .4 2.5 .1" stroke="#bcbd22" stroke-width="0.5" fill="none" stroke-opacity="0.55" stroke-linejoin="round"/>
<path d="M171.5 396.8l2.5-.1 2.5-.3 2.5-.4 2.5 0 2.5-.2 2.5-.9 2.5 0 2.5-.6 2.5 .1 2.5-.6 2.5-.1 2.6-.6 2.5 .1 2.5 .6 2.5-.6 2.5 .2 2.5-.2 2.5 .2 2.5 .2 2.5 .2 2.5 0 2.5-.2 2.5 .2 2.6 0 2.5-.2 2.5-.2 2.5 .1 2.5-.3 2.5 .3 2.5-.3 2.5 0 2.5 .3 2.5-.5 2.5 .3 2.5 .3 2.5-.6 2.6-.2 2.5 .2 2.5-.3 2.5 .1 2.5-.1 2.5-.6 2.5 .2 2.5 .2 2.5-.2" stroke="#17becf" stroke-width="0.5" fill="none" stroke-opacity="0.55" stroke-linejoin="round"/>
<path d="M171.5 389.2l2.5 .5 2.5-.5 2.5 .2 2.5-.7 2.5-.4 2.5-.4 2.5-1.2 2.5-.2 2.5-.6 2.5-.5 2.5-.2 2.6-.5 2.5 0 2.5 0 2.5 0 2.5-1.2 2.5-.5 2.5 .2 2.5 .1 2.5-.1 2.5-.5 2.5-.4 2.5 .4 2.6 .2 2.5-.2 2.5 .3 2.5 0 2.5 .1 2.5 .1 2.5-.4 2.5 0 2.5 .3 2.5-.4 2.5-.1 2.5-.1 2.5 .7 2.6 0 2.5-.8 2.5 .3 2.5-.2 2.5 .3 2.5-.3 2.5-.1 2.5-.2 2.5 .3" stroke="#1f77b4" stroke-width="0.5" fill="none" stroke-opacity="0.55" stroke-linejoin="round"/>
<path d="M171.5 396.1l2.5-.2 2.5 0 2.5-.4 2.5-.4 2.5 .1 2.5-.8 2.5-1.2 2.5-.6 2.5-.7 2.5 0 2.5-.2 2.6 .4 2.5-.3 2.5-.5 2.5 0 2.5-.4 2.5 .2 2.5-.2 2.5-.5 2.5 .1 2.5 .1 2.5-.6 2.5 .3 2.6-.8 2.5 .3 2.5 0 2.5 0 2.5 .4 2.5-.4 2.5 .1 2.5-.4 2.5 0 2.5 .2 2.5-.2 2.5 0 2.5 .1 2.6-.5 2.5 .1 2.5 0 2.5-.2 2.5-.2 2.5 .3 2.5-.3 2.5 .3 2.5-.2" stroke="#ff7f0e" stroke-width="0.5" fill="none" stroke-opacity="0.55" stroke-linejoin="round"/>
<path d="M171.5 391.4l2.5-.2 2.5-.9 2.5-.1 2.5-.1 2.5-.1 2.5-2.3 2.5-.9 2.5-.7 2.5-.6 2.5 .2 2.5-.7 2.6-.1 2.5-.3 2.5 0 2.5-.2 2.5 .3 2.5-.2 2.5-.3 2.5 0 2.5-.1 2.5-.1 2.5-.2 2.5-.2 2.6 .2 2.5-.5 2.5-.8 2.5 .1 2.5 .1 2.5 .1 2.5 .1 2.5-.3 2.5 .4 2.5-.4 2.5 .6 2.5-.4 2.5 .3 2.6 .1 2.5 0 2.5 .2 2.5-.1 2.5 0 2.5-.7 2.5 .9 2.5-.3 2.5 .3" stroke="#2ca02c" stroke-width="0.5" fill="none" stroke-opacity="0.55" stroke-linejoin="round"/>
<path d="M171.5 382.9l2.5 .2 2.5-.8 2.5 .1 2.5-.1 2.5 .4 2.5-1.8 2.5-1.5 2.5 .1 2.5-.2 2.5-1.3 2.5 0 2.6-.4 2.5-.1 2.5 0 2.5-.1 2.5 1.1 2.5-1.4 2.5-.1 2.5 .2 2.5 .1 2.5-.3 2.5-.8 2.5 .5 2.6-.6 2.5 .8 2.5 0 2.5 .1 2.5-.4 2.5 .8 2.5-.5 2.5-.4 2.5 .1 2.5-.1 2.5 .5 2.5 0 2.5-.9 2.6 .1 2.5-.1 2.5 .3 2.5-.2 2.5 .1 2.5-.8 2.5 .1 2.5 .2 2.5-.4" stroke="#d62728" stroke-width="0.5" fill="none" stroke-opacity="0.55" stroke-linejoin="round"/>
<path d="M171.5 390.5l2.5-.1 2.5-.8 2.5-.1 2.5 0 2.5-.8 2.5-.8 2.5-.9 2.5-1 2.5 .5 2.5-.4 2.5-.3 2.6-.2 2.5-.5 2.5-.2 2.5-.6 2.5-.4 2.5 .1 2.5-.3 2.5-.4 2.5-.4 2.5 .1 2.5-.6 2.5 .1 2.6-.5 2.5 0 2.5 .1 2.5-.2 2.5-.2 2.5-.3 2.5 .2 2.5-1 2.5-.3 2.5-.2 2.5 .1 2.5 .4 2.5 .4 2.6 0 2.5 .2 2.5-.3 2.5 .1 2.5-.4 2.5 .2 2.5 0 2.5-.5 2.5 0" stroke="#9467bd" stroke-width="0.5" fill="none" stroke-opacity="0.55" stroke-linejoin="round"/>
<path d="M171.5 380.4l2.5-.3 2.5 .9 2.5-1 2.5-.1 2.5-.1 2.5-2.5 2.5-1.1 2.5-.9 2.5 .1 2.5-.6 2.5 .2 2.6-.5 2.5 .2 2.5-.9 2.5-.8 2.5-.1 2.5-.3 2.5 .2 2.5-.4 2.5-.1 2.5-.1 2.5-.9 2.5 .1 2.6-.1 2.5-.4 2.5-.5 2.5 .6 2.5-.3 2.5-.6 2.5 0 2.5 .1 2.5 .4 2.5-.9 2.5 .3 2.5 .4 2.5-1.1 2.6-.1 2.5 .5 2.5 0 2.5-.9 2.5-.1 2.5-.8 2.5-.2 2.5 .1 2.5-.4" stroke="#8c564b" stroke-width="0.5" fill="none" stroke-opacity="0.55" stroke-linejoin="round"/>
<path d="M171.5 386.4l2.5-.4 2.5-.2 2.5-.4 2.5 .1 2.5-.1 2.5-.8 2.5-.4 2.5-1.3 2.5-.3 2.5-1.1 2.5 0 2.6-.7 2.5 .2 2.5-1.2 2.5 .4 2.5-.4 2.5 .3 2.5-.4 2.5 .3 2.5-.3 2.5-.5 2.5 .5 2.5-.2 2.6 .1 2.5-.3 2.5 .4 2.5-.3 2.5-.6 2.5-.3 2.5 .7 2.5-.5 2.5-.8 2.5-.3 2.5-.1 2.5 .2 2.5-.4 2.6-.5 2.5-.2 2.5 .7 2.5-1 2.5-.2 2.5 0 2.5-.8 2.5 .4 2.5 .6" stroke="#e377c2" stroke-width="0.5" fill="none" stroke-opacity="0.55" stroke-linejoin="round"/>
<path d="M171.5 403.1l2.5 .3 2.5-.4 2.5-.2 2.5 0 2.5-.3 2.5-.7 2.5-.6 2.5 0 2.5-.5 2.5-.1 2.5-.1 2.6 .3 2.5-.1 2.5-.2 2.5 .3 2.5-.4 2.5 .3 2.5-.3 2.5 0 2.5-.2 2.5 .4 2.5-.2 2.5 .5 2.6 .2 2.5-.2 2.5 0 2.5 .3 2.5-.1 2.5 0 2.5 .1 2.5-.1 2.5-.1 2.5 .1 2.5-.2 2.5-.2 2.5 .2 2.6 .4 2.5-.4 2.5 .3 2.5-.3 2.5 .2 2.5-.2 2.5 .2 2.5 .1 2.5 0" stroke="#7f7f7f" stroke-width="0.5" fill="none" stroke-opacity="0.55" stroke-linejoin="round"/>
<path d="M171.5 384.2l2.5-.1 2.5-.4 2.5-.5 2.5-.1 2.5-.1 2.5-.5 2.5-.9 2.5-1 2.5 .7 2.5-.1 2.5-.3 2.6 .8 2.5-.6 2.5 .3 2.5-.4 2.5-.3 2.5-.2 2.5 0 2.5-.3 2.5-.3 2.5-.8 2.5 .5 2.5-.3 2.6-.8 2.5 .1 2.5-.5 2.5 .2 2.5 .4 2.5-.4 2.5 .2 2.5-.1 2.5-.1 2.5-.5 2.5-.1 2.5-.9 2.5-.5 2.6 .2 2.5-.5 2.5-.5 2.5 .5 2.5-.7 2.5 .7 2.5-.2 2.5-.2 2.5-.3" stroke="#bcbd22" stroke-width="0.5" fill="none" stroke-opacity="0.55" stroke-linejoin="round"/>
<path d="M171.5 409.2l2.5-.2 2.5 .1 2.5-.2 2.5 0 2.5 .1 2.5-.8 2.5-.6 2.5-.5 2.5 0 2.5-.4 2.5-.1 2.6-.2 2.5-.1 2.5-.1 2.5-.3 2.5-.1 2.5 .2 2.5-.2 2.5 0 2.5-.1 2.5 0 2.5-.1 2.5-.1 2.6 0 2.5-.1 2.5 0 2.5 .1 2.5-.1 2.5-.2 2.5-.1 2.5 0 2.5 0 2.5 .2 2.5-.1 2.5-.2 2.5 .1 2.6-.4 2.5 0 2.5-.2 2.5 .2 2.5 0 2.5-.1 2.5 0 2.5-.2 2.5 0" stroke="#17becf" stroke-width="0.5" fill="none" stroke-opacity="0.55" stroke-linejoin="round"/>
<path d="M171.5 399.9l2.5-.5 2.5-.4 2.5 .5 2.5-.2 2.5-.2 2.5-1.4 2.5-.8 2.5-.4 2.5-.5 2.5-.4 2.5-.2 2.6-.2 2.5 .2 2.5-.4 2.5 0 2.5-.7 2.5 .4 2.5-.4 2.5 .8 2.5 .2 2.5-.3 2.5 .2 2.5-.2 2.6 .2 2.5 .1 2.5 .3 2.5-.1 2.5-.2 2.5 .4 2.5-.1 2.5-.1 2.5 .1 2.5-.2 2.5-.2 2.5 .1 2.5 .3 2.6-.3 2.5 .1 2.5 .1 2.5-.5 2.5-.1 2.5 .1 2.5 .1 2.5-.3 2.5-.1" stroke="#1f77b4" stroke-width="0.5" fill="none" stroke-opacity="0.55" stroke-linejoin="round"/>
<path d="M171.5 369.3l2.5-.9 2.5-.6 2.5 0 2.5 .2 2.5-1.3 2.5-1.4 2.5-2.6 2.5-1.3 2.5-.8 2.5-.4 2.5-.8 2.6-1.4 2.5-.8 2.5 .5 2.5-.6 2.5-.5 2.5 .6 2.5-1.9 2.5 1.1 2.5-.3 2.5-.4 2.5 .2 2.5-1.3 2.6 0 2.5 .3 2.5-.8 2.5-.3 2.5 .3 2.5-.3 2.5-1 2.5 .8 2.5 .5 2.5-.2 2.5-1 2.5 .5 2.5 .5 2.6-1.2 2.5 .3 2.5 .5 2.5-.7 2.5 0 2.5 .3 2.5-.7 2.5-.1 2.5-1.1" stroke="#ff7f0e" stroke-width="0.5" fill="none" stroke-opacity="0.55" stroke-linejoin="round"/>
<path d="M171.5 389.4l2.5-.1 2.5-.6 2.5 .5 2.5 .2 2.5-.8 2.5-1 2.5-.6 2.5-1 2.5-.5 2.5 .3 2.5-.1 2.6-.6 2.5-.1 2.5 0 2.5 .4 2.5-.9 2.5 .3 2.5-1 2.5 .3 2.5-.4 2.5 .1 2.5-.1 2.5-.7 2.6 .7 2.5-.2 2.5 .4 2.5 .1 2.5 .1 2.5-.5 2.5-.1 2.5 .2 2.5-.2 2.5-1.1 2.5 1.1 2.5 0 2.5 0 2.6-1 2.5 1 2.5-.3 2.5 .2 2.5-.5 2.5 0 2.5-.2 2.5 0 2.5-.4" stroke="#2ca02c" stroke-width="0.5" fill="none" stroke-opacity="0.55" stroke-linejoin="round"/>
<path d="M171.5 368.7l2.5 0 2.5-1.7 2.5 1.8 2.5-1.7 2.5-.2 2.5-3.7 2.5-1.2 2.5-1 2.5-1 2.5 .7 2.5-.8 2.6 1.1 2.5-.2 2.5-.9 2.5 .6 2.5-.3 2.5 1.3 2.5 .1 2.5 .5 2.5 .6 2.5 .6 2.5 .6 2.5-1.1 2.6 .1 2.5 .7 2.5-.2 2.5-.6 2.5 0 2.5-.4 2.5 1.1 2.5-.3 2.5 1.2 2.5-.1 2.5 .5 2.5-.2 2.5-.1 2.6 .3 2.5-.3 2.5 .9 2.5-.5 2.5 1.4 2.5-.9 2.5 1.2 2.5 .6 2.5 .5" stroke="#d62728" stroke-width="0.5" fill="none" stroke-opacity="0.55" stroke-linejoin="round"/>
<path d="M171.5 395.2l2.5-.8 2.5-.2 2.5 .2 2.5-.3 2.5-.1 2.5-2.5 2.5-1 2.5-1.1 2.5-.6 2.5-.2 2.5 0 2.6 .2 2.5-.2 2.5 .1 2.5 .2 2.5-.3 2.5 .4 2.5-.1 2.5-.1 2.5-.3 2.5-.1 2.5 .3 2.5 .2 2.6 .1 2.5-.2 2.5-.2 2.5 .2 2.5 .1 2.5-.2 2.5 .4 2.5-.2 2.5 0 2.5 .1 2.5-.2 2.5 .5 2.5-.3 2.6 .4 2.5 0 2.5 .3 2.5-.5 2.5 .3 2.5-.3 2.5 0 2.5 .7 2.5-.1" stroke="#9467bd" stroke-width="0.5" fill="none" stroke-opacity="0.55" stroke-linejoin="round"/>
<path d="M171.5 386.8l2.5-.7 2.5 .5 2.5-1.2 2.5-.1 2.5-.9 2.5-1.6 2.5-1 2.5-.5 2.5-.9 2.5-.8 2.5-.1 2.6-.4 2.5-.1 2.5-.1 2.5 0 2.5 .2 2.5-.3 2.5-.5 2.5 0 2.5-.2 2.5 .3 2.5-.8 2.5 .1 2.6 .5 2.5-.1 2.5 .4 2.5-.1 2.5 .3 2.5 .1 2.5-.9 2.5 .1 2.5-.3 2.5-.4 2.5-.1 2.5-.1 2.5-.2 2.6 .4 2.5-.5 2.5-.5 2.5 .4 2.5-.8 2.5 .6 2.5 0 2.5-.8 2.5-.1" stroke="#8c564b" stroke-width="0.5" fill="none" stroke-opacity="0.55" stroke-linejoin="round"/>
<path d="M171.5 378.4l2.5 .8 2.5-1 2.5-.3 2.5-.1 2.5-.8 2.5-.7 2.5-1.6 2.5-.5 2.5-.4 2.5-.2 2.5-1.1 2.6 .9 2.5-.5 2.5-.4 2.5 0 2.5 .6 2.5-.4 2.5-.1 2.5 0 2.5-.3 2.5-.3 2.5 .3 2.5-.1 2.6-.3 2.5-.3 2.5-.6 2.5 .3 2.5-.3 2.5-.2 2.5-.5 2.5-.2 2.5 .2 2.5 .5 2.5-.2 2.5-.6 2.5 .1 2.6-.2 2.5 .7 2.5-.4 2.5-.2 2.5 .6 2.5-.3 2.5-.8 2.5 .7 2.5-.2" stroke="#e377c2" stroke-width="0.5" fill="none" stroke-opacity="0.55" stroke-linejoin="round"/>
<path d="M171.5 358.6l2.5 .4 2.5-.2 2.5-1.6 2.5-.4 2.5-1.2 2.5-3.4 2.5-2.3 2.5 0 2.5-3.3 2.5-1.1 2.5-.3 2.6-1 2.5-.2 2.5-1 2.5 .4 2.5-1.5 2.5-.9 2.5-1.6 2.5 .2 2.5-1.3 2.5-.9 2.5-.3 2.5-1 2.6 0 2.5-.7 2.5 .5 2.5-1.5 2.5 1.7 2.5-1.9 2.5-1.2 2.5 .1 2.5 .3 2.5-1.3 2.5-.2 2.5-1.3 2.5 2.5 2.6-1.6 2.5 1.2 2.5-1.9 2.5 .1 2.5-.9 2.5 1 2.5-.2 2.5-.6 2.5-1.5" stroke="#7f7f7f" stroke-width="0.5" fill="none" stroke-opacity="0.55" stroke-linejoin="round"/>
<path d="M171.5 385.8l2.5-.3 2.5-.7 2.5 .5 2.5-.2 2.5 .3 2.5-1 2.5-1.3 2.5-.5 2.5 0 2.5-.4 2.5 0 2.6 0 2.5-.7 2.5 .3 2.5 .1 2.5-.6 2.5 .8 2.5-.4 2.5-.6 2.5 .3 2.5 .5 2.5-.3 2.5 .3 2.6-.5 2.5-.2 2.5 .5 2.5-.3 2.5-.9 2.5 .4 2.5 .1 2.5-.6 2.5 .6 2.5-.3 2.5-.6 2.5 .5 2.5 .2 2.6 .2 2.5-.3 2.5-.1 2.5 .1 2.5-.4 2.5 .1 2.5 .5 2.5-.7 2.5-.4" stroke="#bcbd22" stroke-width="0.5" fill="none" stroke-opacity="0.55" stroke-linejoin="round"/>
<path d="M171.5 376.1l2.5-1.2 2.5-.3 2.5-.7 2.5-.8 2.5 .5 2.5-2.5 2.5-1.2 2.5-.9 2.5-.7 2.5-1.1 2.5 .4 2.6-.6 2.5-.8 2.5-.5 2.5 .3 2.5-.8 2.5 1.4 2.5-.2 2.5 .2 2.5-.3 2.5-.1 2.5 0 2.5-.5 2.6-.3 2.5-.3 2.5-.4 2.5-.8 2.5-.2 2.5 .3 2.5 .2 2.5 .2 2.5 0 2.5-1.1 2.5 .4 2.5 0 2.5-.6 2.6 .5 2.5 .4 2.5-.9 2.5 .1 2.5 1.4 2.5-1.1 2.5 .6 2.5-.8 2.5-.4" stroke="#17becf" stroke-width="0.5" fill="none" stroke-opacity="0.55" stroke-linejoin="round"/>
<path d="M171.5 367.3l2.5-2.1 2.5 .2 2.5-.6 2.5-.2 2.5-.1 2.5-1.9 2.5-2.3 2.5-1.5 2.5-1 2.5-.3 2.5-.3 2.6-.9 2.5-.5 2.5-.6 2.5 1.5 2.5-.9 2.5-.3 2.5-.6 2.5-.7 2.5-1 2.5 .8 2.5-.8 2.5-.1 2.6 .1 2.5-.5 2.5-.8 2.5-.6 2.5 .9 2.5-.7 2.5 0 2.5-1.2 2.5-.7 2.5 1.2 2.5-.4 2.5-.6 2.5-.3 2.6-.1 2.5-.9 2.5-.4 2.5 .5 2.5-1.7 2.5 .1 2.5-.2 2.5 0 2.5-1.1" stroke="#1f77b4" stroke-width="0.5" fill="none" stroke-opacity="0.55" stroke-linejoin="round"/>
<path d="M171.5 407.2l2.5 0 2.5 .1 2.5 0 2.5-.4 2.5 0 2.5-.6 2.5-.2 2.5-.5 2.5 0 2.5 0 2.5-.2 2.6 .2 2.5 0 2.5-.1 2.5-.1 2.5 .2 2.5-.2 2.5-.2 2.5 .3 2.5-.1 2.5 .3 2.5-.2 2.5 0 2.6-.2 2.5 0 2.5-.1 2.5 0 2.5 .1 2.5-.3 2.5 .3 2.5-.2 2.5-.2 2.5 .3 2.5-.2 2.5-.1 2.5-.1 2.6-.2 2.5-.1 2.5 0 2.5-.1 2.5 .3 2.5-.2 2.5 .2 2.5 .1 2.5-.3" stroke="#ff7f0e" stroke-width="0.5" fill="none" stroke-opacity="0.55" stroke-linejoin="round"/>
<path d="M171.5 394.6l2.5 .2 2.5-.8 2.5 .3 2.5-.6 2.5 0 2.5-.7 2.5-.4 2.5-.4 2.5-.6 2.5 .5 2.5-.1 2.6-.3 2.5 .4 2.5-.1 2.5-.6 2.5 .4 2.5 .3 2.5 .2 2.5 .4 2.5-.3 2.5 .1 2.5-.2 2.5 .3 2.6 0 2.5 .1 2.5 .1 2.5 .3 2.5-.4 2.5 .1 2.5 .3 2.5 .3 2.5-.5 2.5 .3 2.5-.1 2.5 .2 2.5 0 2.6-.5 2.5-.3 2.5-.2 2.5 .4 2.5 .3 2.5-.2 2.5-.3 2.5 .4 2.5 .1" stroke="#2ca02c" stroke-width="0.5" fill="none" stroke-opacity="0.55" stroke-linejoin="round"/>
<path d="M171.5 390.8l2.5-.2 2.5 0 2.5-.2 2.5 0 2.5 0 2.5-3.1 2.5-1.2 2.5-.6 2.5-1.1 2.5-.5 2.5-.2 2.6-.3 2.5-.3 2.5-.9 2.5 1 2.5-.5 2.5-.9 2.5 .4 2.5-.1 2.5-.2 2.5 .2 2.5-.4 2.5-.5 2.6-.1 2.5 .3 2.5-.2 2.5-.7 2.5 .1 2.5 .3 2.5-.7 2.5-.1 2.5 .5 2.5-.4 2.5-.5 2.5 .1 2.5-.2 2.6 0 2.5 .4 2.5 .4 2.5-.4 2.5-.2 2.5 0 2.5 .2 2.5 .1 2.5 0" stroke="#d62728" stroke-width="0.5" fill="none" stroke-opacity="0.55" stroke-linejoin="round"/>
<path d="M171.5 384.3l2.5 .4 2.5-1.1 2.5 .1 2.5-.4 2.5 0 2.5-2.8 2.5-1.7 2.5-1.5 2.5-.1 2.5-.7 2.5-.8 2.6-.2 2.5-.4 2.5 .1 2.5-.5 2.5 .1 2.5-.1 2.5 .3 2.5-.1 2.5-.1 2.5-.2 2.5-.9 2.5 .9 2.6-.2 2.5 .1 2.5 .2 2.5 0 2.5-.6 2.5 .2 2.5 .5 2.5-.4 2.5 .3 2.5 .3 2.5-.2 2.5-.4 2.5 0 2.6 .1 2.5-.6 2.5 .3 2.5 .5 2.5-.7 2.5-.3 2.5 .1 2.5-.6 2.5-.2" stroke="#9467bd" stroke-width="0.5" fill="none" stroke-opacity="0.55" stroke-linejoin="round"/>
<path d="M171.5 391.9l2.5 0 2.5-.1 2.5-.8 2.5 .2 2.5-.1 2.5-.6 2.5-1 2.5-.4 2.5 .5 2.5-.4 2.5-.1 2.6-.5 2.5 .2 2.5-.1 2.5 .5 2.5-.1 2.5 .1 2.5 .4 2.5-.2 2.5-.2 2.5 .4 2.5-.3 2.5 .2 2.6-.4 2.5-.4 2.5 1 2.5-.5 2.5 .5 2.5-.5 2.5 .2 2.5-.4 2.5 .3 2.5-.1 2.5 .4 2.5 0 2.5-.1 2.6-.2 2.5 .1 2.5-.5 2.5 .6 2.5-.2 2.5 .6 2.5-.2 2.5 0 2.5-.2" stroke="#8c564b" stroke-width="0.5" fill="none" stroke-opacity="0.55" stroke-linejoin="round"/>
<path d="M171.5 411.3l2.5-.1 2.5 0 2.5 .1 2.5-.2 2.5 0 2.5-.5 2.5 .1 2.5-.1 2.5-.3 2.5 .1 2.5 .1 2.6-.1 2.5-.1 2.5 .2 2.5-.2 2.5-.1 2.5-.1 2.5 .2 2.5-.1 2.5 0 2.5-.1 2.5-.1 2.5 0 2.6 .1 2.5-.1 2.5-.2 2.5 .2 2.5 0 2.5 .1 2.5-.1 2.5 .2 2.5 0 2.5 .1 2.5-.1 2.5 .1 2.5 .1 2.6 0 2.5 0 2.5-.2 2.5 0 2.5-.1 2.5 .1 2.5 .1 2.5 0 2.5 0" stroke="#e377c2" stroke-width="0.5" fill="none" stroke-opacity="0.55" stroke-linejoin="round"/>
<path d="M171.5 360.8l2.5-1.8 2.5-.2 2.5 .1 2.5-.1 2.5-1 2.5-2.4 2.5-1 2.5-.8 2.5-2.4 2.5-.6 2.5 .1 2.6-1.2 2.5-.1 2.5-.3 2.5 .1 2.5-2.1 2.5-.8 2.5 .6 2.5 .5 2.5-1.4 2.5 .4 2.5-.5 2.5 .7 2.6-.9 2.5 .1 2.5 0 2.5-.4 2.5 .7 2.5-.8 2.5 .5 2.5 0 2.5-1 2.5 .1 2.5 .1 2.5-.7 2.5 .5 2.6 .5 2.5 .7 2.5-.3 2.5 .7 2.5-1.3 2.5 0 2.5 .1 2.5-.8 2.5 .3" stroke="#7f7f7f" stroke-width="0.5" fill="none" stroke-opacity="0.55" stroke-linejoin="round"/>
<path d="M171.5 408.6l2.5 .1 2.5-.1 2.5 0 2.5-.3 2.5 0 2.5-.8 2.5-.4 2.5-.2 2.5-.3 2.5-.1 2.5-.2 2.6-.1 2.5 0 2.5 .1 2.5-.3 2.5 .3 2.5-.1 2.5-.5 2.5 .2 2.5 0 2.5 .1 2.5-.1 2.5-.1 2.6-.1 2.5 .1 2.5-.1 2.5 .2 2.5 0 2.5-.4 2.5 .1 2.5-.1 2.5 0 2.5-.1 2.5 0 2.5 0 2.5 0 2.6 0 2.5 .1 2.5-.2 2.5 .3 2.5-.2 2.5-.1 2.5 0 2.5-.1 2.5 0" stroke="#bcbd22" stroke-width="0.5" fill="none" stroke-opacity="0.55" stroke-linejoin="round"/>
<path d="M171.5 417l2.5 0 2.5 0 2.5-.1 2.5-.1 2.5 .1 2.5-.3 2.5-.2 2.5-.1 2.5-.1 2.5 0 2.5 0 2.6-.2 2.5 0 2.5 0 2.5 0 2.5 0 2.5 0 2.5 0 2.5-.1 2.5 .1 2.5 0 2.5 0 2.5 0 2.6 0 2.5 0 2.5 0 2.5 0 2.5 0 2.5 .1 2.5 0 2.5 0 2.5 0 2.5-.1 2.5 0 2.5 0 2.5 0 2.6 0 2.5 0 2.5 0 2.5 0 2.5 0 2.5 0 2.5 .1 2.5-.1 2.5 0" stroke="#17becf" stroke-width="0.5" fill="none" stroke-opacity="0.55" stroke-linejoin="round"/>
<path d="M171.5 405.3l2.5-.4 2.5 .2 2.5-.2 2.5 .1 2.5 0 2.5-.5 2.5-.7 2.5-.4 2.5-.1 2.5-.2 2.5 0 2.6-.2 2.5 .3 2.5 0 2.5-.1 2.5-.1 2.5-.1 2.5 .3 2.5-.1 2.5 .1 2.5-.1 2.5 .1 2.5 0 2.6-.1 2.5 .2 2.5 .1 2.5 0 2.5-.1 2.5 0 2.5 0 2.5-.2 2.5 0 2.5 .1 2.5-.1 2.5 0 2.5-.2 2.6-.1 2.5 .1 2.5-.3 2.5 .3 2.5-.1 2.5 .1 2.5-.1 2.5 .2 2.5 .2" stroke="#1f77b4" stroke-width="0.5" fill="none" stroke-opacity="0.55" stroke-linejoin="round"/>
<path d="M171.5 398.2l2.5-.1 2.5-.2 2.5-.6 2.5 .2 2.5-1 2.5 0 2.5 0 2.5-.7 2.5-.2 2.5 0 2.5 .6 2.6 .1 2.5-.6 2.5 .4 2.5-.2 2.5 .1 2.5-.4 2.5 .2 2.5 .1 2.5 .3 2.5-.1 2.5 .4 2.5-.2 2.6 .2 2.5 0 2.5 0 2.5 .1 2.5 .2 2.5-.1 2.5 .1 2.5-.1 2.5 .3 2.5 0 2.5-.3 2.5 .2 2.5-.2 2.6 .1 2.5 .3 2.5-.4 2.5-.2 2.5 0 2.5-.2 2.5-.3 2.5 .4 2.5 0" stroke="#ff7f0e" stroke-width="0.5" fill="none" stroke-opacity="0.55" stroke-linejoin="round"/>
<path d="M171.5 380.2l2.5-.8 2.5 .5 2.5-1.3 2.5 .8 2.5-1.5 2.5-1.8 2.5-1.4 2.5-.5 2.5-.4 2.5 .1 2.5-1.3 2.6 .2 2.5-.2 2.5 .4 2.5 .5 2.5-1 2.5 .5 2.5-.3 2.5 0 2.5 .8 2.5-.8 2.5 .6 2.5-.2 2.6-.2 2.5 1 2.5 0 2.5 .1 2.5-.8 2.5 .5 2.5-.3 2.5 .6 2.5 0 2.5-.1 2.5-.9 2.5 .3 2.5 .3 2.6-.1 2.5-.3 2.5 .3 2.5 .6 2.5-.3 2.5-1.1 2.5 .1 2.5-.3 2.5 0" stroke="#2ca02c" stroke-width="0.5" fill="none" stroke-opacity="0.55" stroke-linejoin="round"/>
<path d="M171.5 391.5l2.5 .1 2.5-.4 2.5 0 2.5-.6 2.5-.1 2.5-.9 2.5-1 2.5-.5 2.5-1.1 2.5 .2 2.5-.4 2.6 0 2.5-.3 2.5 0 2.5-.1 2.5 .3 2.5-.1 2.5-.4 2.5-.2 2.5 .4 2.5-.3 2.5-.5 2.5 .5 2.6-.5 2.5 .3 2.5-.3 2.5-.1 2.5-.1 2.5 .4 2.5-.2 2.5 .1 2.5-.3 2.5 .6 2.5-.2 2.5-.1 2.5 .9 2.6-.1 2.5-.6 2.5 .4 2.5-.1 2.5 .6 2.5-.5 2.5-.4 2.5-.3 2.5 0" stroke="#d62728" stroke-width="0.5" fill="none" stroke-opacity="0.55" stroke-linejoin="round"/>
<path d="M171.5 398.4l2.5 .1 2.5-.4 2.5 .2 2.5 0 2.5 .2 2.5-1.7 2.5-1.4 2.5-.3 2.5-.8 2.5-.1 2.5-.3 2.6 0 2.5-.5 2.5-.5 2.5-.1 2.5 .1 2.5-.2 2.5 .2 2.5-.3 2.5-.2 2.5 .3 2.5-.3 2.5-.4 2.6 .5 2.5 .1 2.5-.4 2.5 .5 2.5-.3 2.5 0 2.5 0 2.5-.2 2.5 .1 2.5-.1 2.5-.2 2.5-.1 2.5-.1 2.6 .2 2.5-.2 2.5 0 2.5 .2 2.5-.3 2.5 0 2.5 .2 2.5-.6 2.5 .3" stroke="#9467bd" stroke-width="0.5" fill="none" stroke-opacity="0.55" stroke-linejoin="round"/>
<path d="M171.5 381.7l2.5 0 2.5-.1 2.5-.5 2.5-.9 2.5-.6 2.5-.6 2.5-.8 2.5-.8 2.5 .3 2.5-.3 2.5 .1 2.6 .7 2.5-.9 2.5-.1 2.5-.2 2.5-.4 2.5 .8 2.5-1 2.5 .9 2.5-.1 2.5 .5 2.5 .3 2.5-.6 2.6 1.3 2.5-.4 2.5-.7 2.5-.5 2.5 .4 2.5 .1 2.5 .3 2.5-.6 2.5 .8 2.5 .3 2.5-.1 2.5 .2 2.5-.4 2.6 1.1 2.5-.4 2.5-1 2.5 .2 2.5 .2 2.5-.1 2.5-.1 2.5 .1 2.5-.6" stroke="#8c564b" stroke-width="0.5" fill="none" stroke-opacity="0.55" stroke-linejoin="round"/>
<path d="M171.5 400.4l2.5-.1 2.5-.2 2.5-.1 2.5-.4 2.5-.2 2.5-1.6 2.5-.6 2.5-.4 2.5-.4 2.5-.4 2.5-.1 2.6-.4 2.5 .5 2.5-.4 2.5 .3 2.5 .1 2.5 0 2.5 .3 2.5-.6 2.5 .1 2.5 0 2.5 .1 2.5 .4 2.6 .5 2.5-.3 2.5 .2 2.5-.3 2.5 .4 2.5 .2 2.5 .1 2.5 0 2.5 .3 2.5 .3 2.5-.1 2.5 .1 2.5 0 2.6-.2 2.5 0 2.5 .1 2.5 .1 2.5 0 2.5 .2 2.5 .2 2.5 .2 2.5-.1" stroke="#e377c2" stroke-width="0.5" fill="none" stroke-opacity="0.55" stroke-linejoin="round"/>
<path d="M171.5 402.9l2.5-.4 2.5-.1 2.5 0 2.5-.2 2.5 0 2.5-1.3 2.5-.5 2.5-.5 2.5-.3 2.5-.3 2.5-.4 2.6 .2 2.5-.4 2.5-.1 2.5-.1 2.5-.3 2.5 .3 2.5-.2 2.5-.4 2.5-.2 2.5-.1 2.5-.2 2.5 0 2.6-.1 2.5-.3 2.5 .3 2.5-.4 2.5 0 2.5-.1 2.5-.1 2.5 .1 2.5-.4 2.5 .1 2.5-.1 2.5-.1 2.5-.4 2.6-.1 2.5 0 2.5 0 2.5 .1 2.5 0 2.5-.1 2.5 .2 2.5 0 2.5-.3" stroke="#7f7f7f" stroke-width="0.5" fill="none" stroke-opacity="0.55" stroke-linejoin="round"/>
<path d="M171.5 377.5l2.5-.1 2.5-.6 2.5 .1 2.5 0 2.5-.2 2.5-2.7 2.5-.7 2.5-1.2 2.5-.9 2.5 .2 2.5 .1 2.6 .8 2.5-1.1 2.5-.1 2.5 .9 2.5 0 2.5-.6 2.5-.1 2.5-.4 2.5 .9 2.5-.7 2.5 .1 2.5-.1 2.6 .6 2.5 .3 2.5 0 2.5-1 2.5 1.1 2.5-.1 2.5-.7 2.5 .8 2.5-.5 2.5 0 2.5 0 2.5-.5 2.5 .3 2.6-.3 2.5-.4 2.5 .1 2.5 .7 2.5-.2 2.5 0 2.5-.1 2.5 0 2.5 0" stroke="#bcbd22" stroke-width="0.5" fill="none" stroke-opacity="0.55" stroke-linejoin="round"/>
<path d="M171.5 365.2l2.5-.1 2.5-.9 2.5 .8 2.5-1.1 2.5-.3 2.5-2.9 2.5-1.8 2.5-1.1 2.5-.2 2.5-.4 2.5-.3 2.6-.7 2.5-.5 2.5-.4 2.5-.8 2.5-1 2.5-.3 2.5-.8 2.5-.8 2.5 1.9 2.5-.5 2.5-.1 2.5-1.4 2.6-.2 2.5 .9 2.5-.8 2.5 .5 2.5-.8 2.5 .3 2.5-.3 2.5 .5 2.5-1.3 2.5-.1 2.5-.7 2.5 .5 2.5 0 2.6-.3 2.5-1.4 2.5-.3 2.5-.4 2.5 0 2.5 .6 2.5 .5 2.5-.9 2.5-.7" stroke="#17becf" stroke-width="0.5" fill="none" stroke-opacity="0.55" stroke-linejoin="round"/>
<path d="M171.5 371l2.5 0 2.5-.5 2.5-.6 2.5-.8 2.5-.7 2.5-1.7 2.5-1 2.5-.8 2.5-1.4 2.5-.9 2.5-.4 2.6-.5 2.5-.5 2.5-.8 2.5-.9 2.5 1 2.5-.4 2.5-.7 2.5 0 2.5-.6 2.5 .5 2.5-1 2.5 0 2.6 .5 2.5-1.1 2.5-1.1 2.5 .3 2.5-.8 2.5-.3 2.5 .7 2.5-.4 2.5-1 2.5-.6 2.5-.7 2.5 .3 2.5 .4 2.6-1.6 2.5 1 2.5-1.3 2.5-1.1 2.5-.2 2.5 0 2.5-.5 2.5-.7 2.5 .6" stroke="#1f77b4" stroke-width="0.5" fill="none" stroke-opacity="0.55" stroke-linejoin="round"/>
<path d="M171.5 399.3l2.5 .2 2.5-.9 2.5 .3 2.5-.4 2.5 .1 2.5-1.1 2.5-1 2.5-1 2.5-.1 2.5-.1 2.5-.9 2.6-.1 2.5 .2 2.5 0 2.5-.2 2.5 .1 2.5-.1 2.5 .4 2.5-.5 2.5-.2 2.5 .2 2.5-.4 2.5-.2 2.6 0 2.5 .1 2.5 0 2.5 .2 2.5-.5 2.5 0 2.5 .5 2.5-.4 2.5 .2 2.5-.2 2.5-.2 2.5-.1 2.5 .3 2.6 0 2.5-.2 2.5 0 2.5-.2 2.5-.6 2.5 .5 2.5-.2 2.5-.3 2.5 .5" stroke="#ff7f0e" stroke-width="0.5" fill="none" stroke-opacity="0.55" stroke-linejoin="round"/>
<path d="M171.5 385.4l2.5 .1 2.5-.7 2.5-.3 2.5-.3 2.5-.4 2.5 0 2.5-.2 2.5-.9 2.5 .3 2.5 .2 2.5-.7 2.6 0 2.5 .9 2.5-.6 2.5 1 2.5-.6 2.5 0 2.5 .1 2.5 .5 2.5 .1 2.5 0 2.5-.2 2.5-.6 2.6 .5 2.5-.6 2.5 .7 2.5 .2 2.5-.1 2.5-.5 2.5 .9 2.5-.1 2.5-.3 2.5 .3 2.5-.5 2.5 .2 2.5-.2 2.6-.2 2.5 0 2.5-.6 2.5 .3 2.5 .1 2.5-.2 2.5 .4 2.5-.1 2.5 .1" stroke="#2ca02c" stroke-width="0.5" fill="none" stroke-opacity="0.55" stroke-linejoin="round"/>
<path d="M171.5 390.4l2.5-.2 2.5-.4 2.5 .6 2.5-.2 2.5 .1 2.5 0 2.5-.5 2.5-.1 2.5-.2 2.5 0 2.5-.4 2.6 .4 2.5 0 2.5-.4 2.5 0 2.5-.5 2.5 .8 2.5-.2 2.5-.2 2.5-.1 2.5-.3 2.5 .3 2.5-.1 2.6-.3 2.5-.1 2.5-.1 2.5-.2 2.5-.1 2.5-.9 2.5 .2 2.5 .2 2.5 .2 2.5-.1 2.5 .5 2.5 .1 2.5-.3 2.6 .1 2.5-.4 2.5 0 2.5-.8 2.5-.4 2.5 .2 2.5-.5 2.5 .6 2.5-.1" stroke="#d62728" stroke-width="0.5" fill="none" stroke-opacity="0.55" stroke-linejoin="round"/>
<path d="M171.5 390l2.5-.8 2.5 .1 2.5 .7 2.5-1.3 2.5 .1 2.5-1.9 2.5-1 2.5 .1 2.5-1 2.5-.5 2.5-.3 2.6 .6 2.5-.3 2.5-.6 2.5 .4 2.5-.7 2.5 0 2.5-.2 2.5 .2 2.5-.5 2.5 .2 2.5 .1 2.5-.4 2.6 0 2.5-.2 2.5-.6 2.5 .3 2.5 .2 2.5 .2 2.5 .5 2.5-.5 2.5 0 2.5-.5 2.5 .2 2.5-.5 2.5 0 2.6 0 2.5-.7 2.5 .1 2.5-.2 2.5 .3 2.5-.6 2.5 .3 2.5-.7 2.5-.1" stroke="#9467bd" stroke-width="0.5" fill="none" stroke-opacity="0.55" stroke-linejoin="round"/>
<path d="M171.5 376.4l2.5-1.1 2.5-.2 2.5 .5 2.5-.5 2.5 0 2.5-1.6 2.5-1.2 2.5-1.7 2.5-.4 2.5-.2 2.5-.5 2.6-.5 2.5-.5 2.5-.8 2.5 .9 2.5-.9 2.5-.8 2.5 0 2.5-.1 2.5-1.2 2.5 .3 2.5 0 2.5-1 2.6 .7 2.5 0 2.5-1.1 2.5 0 2.5 0 2.5-.6 2.5 0 2.5-.1 2.5 .8 2.5-1.2 2.5 .2 2.5 0 2.5-.5 2.6-.6 2.5-.2 2.5-.5 2.5 1.4 2.5-1.7 2.5-.5 2.5 1 2.5-1.8 2.5-.1" stroke="#8c564b" stroke-width="0.5" fill="none" stroke-opacity="0.55" stroke-linejoin="round"/>
<path d="M171.5 390l2.5-.3 2.5-.3 2.5-.6 2.5 .4 2.5-1.2 2.5-1.2 2.5-.9 2.5-.6 2.5-.2 2.5-.9 2.5 .1 2.6-1 2.5-.4 2.5 .4 2.5-.4 2.5 .4 2.5 .1 2.5-.5 2.5-.3 2.5 .1 2.5 .1 2.5-.2 2.5 .1 2.6 .3 2.5 .2 2.5-.7 2.5 .4 2.5-.8 2.5-.1 2.5 .2 2.5-1 2.5 .6 2.5-.3 2.5 0 2.5-.1 2.5-.3 2.6 .2 2.5 .3 2.5 .1 2.5 .5 2.5-.3 2.5-.2 2.5-.4 2.5-.2 2.5-.4" stroke="#e377c2" stroke-width="0.5" fill="none" stroke-opacity="0.55" stroke-linejoin="round"/>
<path d="M171.5 398.9l2.5-.1 2.5 .3 2.5-.4 2.5 .5 2.5-.9 2.5-1.1 2.5-.4 2.5-.1 2.5-.6 2.5 .3 2.5-.5 2.6-.1 2.5 0 2.5 0 2.5-.1 2.5 .1 2.5 .2 2.5-.4 2.5-.3 2.5 0 2.5 .3 2.5-.2 2.5 0 2.6 .1 2.5 0 2.5-.1 2.5 .1 2.5 .1 2.5-.6 2.5 .2 2.5-.1 2.5-.3 2.5-.3 2.5-.2 2.5 .2 2.5 .1 2.6 .2 2.5 0 2.5-.3 2.5-.3 2.5 .4 2.5-.3 2.5 0 2.5 .2 2.5-.8" stroke="#7f7f7f" stroke-width="0.5" fill="none" stroke-opacity="0.55" stroke-linejoin="round"/>
<path d="M171.5 389.8l2.5 0 2.5-.3 2.5 0 2.5-1.1 2.5-.6 2.5-2.1 2.5-1.4 2.5-.3 2.5-.5 2.5-.9 2.5 .1 2.6 .5 2.5-.9 2.5 .3 2.5-.1 2.5-.3 2.5 .1 2.5-.4 2.5 .1 2.5 .2 2.5 0 2.5 .2 2.5 0 2.6 .1 2.5-.1 2.5-.1 2.5 .2 2.5 .7 2.5-.9 2.5 0 2.5-.2 2.5-.3 2.5 .1 2.5-.1 2.5-.3 2.5-.1 2.6-.2 2.5-.7 2.5 .5 2.5-.1 2.5-.4 2.5 .8 2.5-.3 2.5-.1 2.5-.2" stroke="#bcbd22" stroke-width="0.5" fill="none" stroke-opacity="0.55" stroke-linejoin="round"/>
<path d="M171.5 356.1l2.5-.1 2.5 .4 2.5-.8 2.5-1.3 2.5-.8 2.5-.8 2.5 .9 2.5-1.8 2.5-1.1 2.5 .5 2.5-1.4 2.6-.2 2.5 .2 2.5-.1 2.5-1 2.5 0 2.5-.6 2.5 .1 2.5-1.1 2.5 .3 2.5-1.1 2.5 .7 2.5 .1 2.6-.3 2.5-1 2.5 .5 2.5-1.6 2.5 0 2.5 1.4 2.5-1.4 2.5-.2 2.5-.5 2.5-.4 2.5 .1 2.5-1.3 2.5 .9 2.6-1.4 2.5-.7 2.5-.8 2.5-.9 2.5 1.1 2.5-.8 2.5-1.6 2.5-.4 2.5-.2" stroke="#17becf" stroke-width="0.5" fill="none" stroke-opacity="0.55" stroke-linejoin="round"/>
<path d="M171.5 396l2.5 .3 2.5-.3 2.5-.9 2.5-.1 2.5-.6 2.5-.5 2.5-.5 2.5-.9 2.5-.5 2.5-.3 2.5-.1 2.6-.4 2.5 .6 2.5-.2 2.5-.1 2.5 .1 2.5-.5 2.5-.2 2.5-.2 2.5 0 2.5-.6 2.5-.1 2.5-.1 2.6 0 2.5-.2 2.5-.4 2.5-.2 2.5-.1 2.5 .1 2.5-.6 2.5 .6 2.5-.6 2.5-.3 2.5 0 2.5-.9 2.5 .3 2.6 .3 2.5-.6 2.5 .1 2.5-.3 2.5 .2 2.5-.5 2.5 .4 2.5-.2 2.5-.3" stroke="#1f77b4" stroke-width="0.5" fill="none" stroke-opacity="0.55" stroke-linejoin="round"/>
<path d="M171.5 392.7l2.5 0 2.5-.3 2.5-.6 2.5 0 2.5 .2 2.5-.3 2.5-.4 2.5-.5 2.5 .5 2.5-.6 2.5 .2 2.6-.4 2.5 .7 2.5 0 2.5 .4 2.5-.5 2.5 .1 2.5 0 2.5-.4 2.5-.2 2.5 .3 2.5-.4 2.5 .6 2.6-.3 2.5-.5 2.5 .3 2.5-.1 2.5 .3 2.5-.3 2.5-.2 2.5 .5 2.5-.4 2.5 .4 2.5-.1 2.5 0 2.5-.4 2.6 .2 2.5-.2 2.5 .2 2.5 .4 2.5-.3 2.5-.6 2.5 .9 2.5 .3 2.5-.8" stroke="#ff7f0e" stroke-width="0.5" fill="none" stroke-opacity="0.55" stroke-linejoin="round"/>
<path d="M171.5 403.7l2.5 .2 2.5-.1 2.5-.3 2.5 .1 2.5-.1 2.5-1.5 2.5-1 2.5-.6 2.5-.4 2.5-.1 2.5-.7 2.6 0 2.5-.3 2.5 .2 2.5-.1 2.5 0 2.5 .2 2.5-.2 2.5-.2 2.5 .3 2.5-.3 2.5 .1 2.5 0 2.6-.5 2.5 .2 2.5-.1 2.5 .1 2.5-.3 2.5 0 2.5 0 2.5 .2 2.5-.4 2.5-.2 2.5 .1 2.5-.3 2.5 .1 2.6-.1 2.5 .1 2.5-.1 2.5 .2 2.5-.3 2.5-.2 2.5 .3 2.5-.2 2.5 .1" stroke="#2ca02c" stroke-width="0.5" fill="none" stroke-opacity="0.55" stroke-linejoin="round"/>
<path d="M171.5 399.2l2.5-.1 2.5-.3 2.5 0 2.5-.7 2.5-.2 2.5-.3 2.5-.6 2.5-.7 2.5 .1 2.5-.3 2.5 .2 2.6-.3 2.5-.2 2.5 .5 2.5 0 2.5-.2 2.5-.2 2.5 0 2.5-.2 2.5-.2 2.5-.2 2.5 .2 2.5 0 2.6-.3 2.5 0 2.5 .1 2.5 .1 2.5-.2 2.5 .1 2.5 .2 2.5-.3 2.5-.1 2.5 .2 2.5 .1 2.5-.2 2.5-.1 2.6 .4 2.5-.1 2.5-1 2.5 .8 2.5-.1 2.5-.2 2.5-.1 2.5-.2 2.5 .3" stroke="#d62728" stroke-width="0.5" fill="none" stroke-opacity="0.55" stroke-linejoin="round"/>
<path d="M171.5 399.5l2.5-.2 2.5 0 2.5-.3 2.5-.4 2.5-.6 2.5-.6 2.5-.1 2.5-.2 2.5 .2 2.5-.5 2.5-.3 2.6 0 2.5-.2 2.5-.1 2.5 .1 2.5 .1 2.5-.4 2.5 .2 2.5-.3 2.5 .9 2.5-.6 2.5 .5 2.5-.1 2.6-.2 2.5 .3 2.5-.6 2.5 0 2.5 .1 2.5-.2 2.5-.3 2.5 .3 2.5-.2 2.5 .1 2.5-.6 2.5 .2 2.5 0 2.6-.2 2.5 .1 2.5 .1 2.5-.7 2.5 .5 2.5-.2 2.5-.4 2.5 .7 2.5 0" stroke="#9467bd" stroke-width="0.5" fill="none" stroke-opacity="0.55" stroke-linejoin="round"/>
<path d="M171.5 382l2.5 0 2.5-.9 2.5 0 2.5 .3 2.5-1.2 2.5 .3 2.5 0 2.5-.4 2.5 .1 2.5-.4 2.5-.2 2.6-.4 2.5 .5 2.5-1.2 2.5 .6 2.5-.2 2.5-1.2 2.5-.1 2.5 .3 2.5-.7 2.5 .5 2.5-.2 2.5-.6 2.6 0 2.5 .1 2.5 .5 2.5-.1 2.5-.2 2.5-.1 2.5-.4 2.5-.3 2.5-.4 2.5 .2 2.5 .8 2.5-1.3 2.5 .8 2.6 0 2.5 .4 2.5-1.1 2.5-.7 2.5 .8 2.5-.4 2.5-.5 2.5-.3 2.5 .7" stroke="#8c564b" stroke-width="0.5" fill="none" stroke-opacity="0.55" stroke-linejoin="round"/>
<path d="M171.5 400.1l2.5 0 2.5-.1 2.5-.4 2.5 .1 2.5-1 2.5-1.3 2.5-.4 2.5-.8 2.5 0 2.5-.5 2.5-.2 2.6-.4 2.5-.1 2.5 .1 2.5-.5 2.5 .2 2.5-.2 2.5 .2 2.5-.2 2.5-.7 2.5 .9 2.5-.8 2.5 .2 2.6-.2 2.5 .4 2.5-.4 2.5 .3 2.5-.4 2.5 .2 2.5-.2 2.5 .5 2.5-.3 2.5-.6 2.5 .5 2.5 0 2.5-.3 2.6-.1 2.5-.1 2.5 0 2.5-.4 2.5 .2 2.5 0 2.5-.1 2.5-.2 2.5-.3" stroke="#e377c2" stroke-width="0.5" fill="none" stroke-opacity="0.55" stroke-linejoin="round"/>
<path d="M171.5 387.9l2.5 .2 2.5-.9 2.5 .1 2.5-.3 2.5-.7 2.5-1.3 2.5-1.8 2.5-.6 2.5-.7 2.5 .1 2.5-.3 2.6-.7 2.5-.5 2.5 .5 2.5-.4 2.5-.6 2.5 .8 2.5-.6 2.5-.7 2.5 .6 2.5 .1 2.5 .1 2.5 .7 2.6-.9 2.5 0 2.5-.6 2.5 .4 2.5 .6 2.5 0 2.5-.2 2.5-.8 2.5 .1 2.5-.3 2.5-.5 2.5 .8 2.5-.3 2.6-.2 2.5 .3 2.5 0 2.5-.2 2.5-.5 2.5 .3 2.5-.5 2.5-.3 2.5 .3" stroke="#7f7f7f" stroke-width="0.5" fill="none" stroke-opacity="0.55" stroke-linejoin="round"/>
<path d="M171.5 397.7l2.5-.5 2.5-.3 2.5 .1 2.5-.3 2.5 0 2.5-1 2.5-.9 2.5-.5 2.5-.1 2.5-.6 2.5 .2 2.6-.1 2.5-.6 2.5 .6 2.5-.1 2.5 0 2.5-.4 2.5-.1 2.5-.5 2.5 .5 2.5 .3 2.5 .1 2.5 .1 2.6-.3 2.5 .2 2.5 0 2.5-.2 2.5 .2 2.5-.2 2.5 .1 2.5-.2 2.5 .1 2.5 .1 2.5 0 2.5 0 2.5 .2 2.6-.2 2.5-.6 2.5 .5 2.5-.5 2.5-.1 2.5-.1 2.5-.3 2.5-.2 2.5 .4" stroke="#bcbd22" stroke-width="0.5" fill="none" stroke-opacity="0.55" stroke-linejoin="round"/>
<path d="M171.5 383.4l2.5 0 2.5 .3 2.5 .1 2.5-.4 2.5-.5 2.5-1.2 2.5-1.1 2.5-1.4 2.5 .5 2.5-.1 2.5-.5 2.6 .4 2.5-.3 2.5-.5 2.5 .3 2.5-.4 2.5 .3 2.5-.1 2.5-.2 2.5-.1 2.5 .5 2.5 0 2.5-.8 2.6 .2 2.5 .3 2.5-.5 2.5-.2 2.5 .2 2.5 .4 2.5 .1 2.5 .2 2.5-.3 2.5-.5 2.5-.5 2.5 .5 2.5-.2 2.6 .1 2.5-.5 2.5-.3 2.5 .3 2.5 .7 2.5-.7 2.5-.4 2.5 .4 2.5 .3" stroke="#17becf" stroke-width="0.5" fill="none" stroke-opacity="0.55" stroke-linejoin="round"/>
<polygon points="171.5,385.8 174,385.6 176.5,385.4 179,385.1 181.5,384.9 184,384.6 186.5,383.2 189,382.2 191.5,381.5 194,381 196.5,380.7 199,380.4 201.6,380.2 204.1,380.1 206.6,379.9 209.1,379.8 211.6,379.7 214.1,379.6 216.6,379.6 219.1,379.5 221.6,379.4 224.1,379.3 226.6,379.3 229.1,379.2 231.7,379.1 234.2,379 236.7,379 239.2,378.9 241.7,378.8 244.2,378.8 246.7,378.7 249.2,378.6 251.7,378.5 254.2,378.5 256.7,378.4 259.2,378.3 261.7,378.3 264.3,378.2 266.8,378.1 269.3,378 271.8,378 274.3,377.9 276.8,377.8 279.3,377.8 281.8,377.7 284.3,377.6 284.3,380.3 281.8,380.4 279.3,380.4 276.8,380.5 274.3,380.6 271.8,380.6 269.3,380.7 266.8,380.8 264.3,380.9 261.7,380.9 259.2,381 256.7,381.1 254.2,381.1 251.7,381.2 249.2,381.3 246.7,381.4 244.2,381.4 241.7,381.5 239.2,381.6 236.7,381.7 234.2,381.7 231.7,381.8 229.1,381.9 226.6,381.9 224.1,382 221.6,382.1 219.1,382.2 216.6,382.2 214.1,382.3 211.6,382.4 209.1,382.5 206.6,382.6 204.1,382.7 201.6,382.9 199,383.1 196.5,383.4 194,383.7 191.5,384.2 189,384.9 186.5,385.9 184,387.3 181.5,387.6 179,387.8 176.5,388 174,388.3 171.5,388.5" fill="#f0326a" fill-opacity="0.95"/>
<path d="M184 340V420" stroke="#f25c86" stroke-width="1.100" stroke-dasharray="4.400 1.800" fill="none"/>
</g>
<rect x="166.4" y="339.5" width="122.2" height="80.5" fill="none" stroke="#222" stroke-width=".8"/>
<path d="M184 420v2.200M204.9 420v2.200M225.8 420v2.200M246.7 420v2.200M267.6 420v2.200M288.5 420v2.200M166.4 405.8h-2.200M166.4 390.9h-2.200M166.4 376h-2.200M166.4 361.1h-2.200M166.4 346.2h-2.200" stroke="#222" stroke-width=".6" fill="none"/>
<g font-size="7"><text x="184" y="428.3" text-anchor="middle">0</text><text x="204.9" y="428.3" text-anchor="middle">5</text><text x="225.8" y="428.3" text-anchor="middle">10</text><text x="246.7" y="428.3" text-anchor="middle">15</text><text x="267.6" y="428.3" text-anchor="middle">20</text><text x="288.5" y="428.3" text-anchor="middle">25</text><text x="163.2" y="408.2" text-anchor="end">100</text><text x="163.2" y="393.3" text-anchor="end">200</text><text x="163.2" y="378.4" text-anchor="end">300</text><text x="163.2" y="363.5" text-anchor="end">400</text><text x="163.2" y="348.6" text-anchor="end">500</text><text x="233.7" y="435.8" text-anchor="middle">Time (h)</text></g>
<text x="231.2" y="334.8" font-size="8.25" text-anchor="middle">Treatment (INH 0.5 mg/L)</text>
<rect x="167.8" y="341.3" width="48" height="20.2" rx="1" fill="#fff" fill-opacity=".8" stroke="#ccc" stroke-width=".5"/>
<g font-size="5.75"><path d="M170.3 344.3h7.5" stroke="#f2557f" stroke-width=".8" stroke-dasharray="2.800 1.200"/><text x="180.3" y="346.2">Drug addition</text><rect x="170.3" y="349.3" width="7.5" height="3.400" fill="#f8a9c0"/><text x="180.3" y="352.9">Mean±SD</text><rect x="170.3" y="356" width="7.5" height="3.400" fill="#f2457a"/><text x="180.3" y="359.6">Mean±SEM</text></g>
<clipPath id="c3"><rect x="25.6" y="447" width="121.4" height="78.8"/></clipPath>
<rect x="25.6" y="447" width="121.4" height="78.8" fill="#fff"/>
<g clip-path="url(#c3)">
<polygon points="31.6,469.5 33.3,470.2 35,470.6 36.7,471.2 38.4,470.8 40.1,470.7 41.7,470.5 43.4,470.7 45.1,470.8 46.8,471.2 48.5,471.6 50.2,471.9 51.9,472.2 53.6,472.2 55.3,472.4 57,472.5 58.7,472.6 60.3,472.3 62,472.2 63.7,472.2 65.4,472 67.1,472.4 68.8,472.8 70.5,473.1 72.2,472.9 73.9,472.9 75.6,472.4 77.3,472.1 79,472.1 80.6,472.4 82.3,472.8 84,472.8 85.7,472.8 87.4,472.9 89.1,472.6 90.8,472.7 92.5,473.1 94.2,473.2 95.9,473.2 97.6,473.4 99.2,473.4 100.9,473.1 102.6,473.1 104.3,473 106,472.8 107.7,472.8 109.4,472.9 111.1,472.9 112.8,472.9 114.5,472.8 116.2,472.8 117.8,472.8 119.5,472.6 121.2,472.6 122.9,472.7 124.6,472.4 126.3,472.1 128,472.5 129.7,472.6 131.4,472.7 133.1,473.3 134.8,473.5 136.4,473.3 138.1,473.2 139.8,473.4 141.5,473.2 141.5,499.4 139.8,499.4 138.1,499.2 136.4,499.1 134.8,499.2 133.1,498.9 131.4,498.1 129.7,498 128,497.7 126.3,497.2 124.6,497.3 122.9,497.5 121.2,497.4 119.5,497.3 117.8,497.3 116.2,497.2 114.5,497.1 112.8,497.1 111.1,496.9 109.4,496.8 107.7,496.6 106,496.4 104.3,496.5 102.6,496.5 100.9,496.4 99.2,496.6 97.6,496.5 95.9,496.2 94.2,496 92.5,495.8 90.8,495.2 89.1,495.1 87.4,495.2 85.7,495 84,494.9 82.3,494.8 80.6,494.3 79,493.8 77.3,493.7 75.6,493.9 73.9,494.2 72.2,494.2 70.5,494.2 68.8,493.8 67.1,493.3 65.4,492.8 63.7,492.8 62,492.7 60.3,492.7 58.7,492.9 57,492.6 55.3,492.4 53.6,492.1 51.9,492 50.2,491.6 48.5,491.1 46.8,490.7 45.1,490.1 43.4,489.8 41.7,489.5 40.1,489.6 38.4,489.6 36.7,489.9 35,489.1 33.3,488.7 31.6,487.8" fill="#a9d9f1" fill-opacity="0.6"/>
<path d="M31.6 471.9l1.7 1.3 1.7 1.9 1.7 2.3 1.7 .6 1.7 1.7 1.6 .6 1.7 2.5 1.7 .3 1.7 4.6 1.7 4.4 1.7 5.5 1.7 4.7 1.7 3.4 1.7 2.6 1.7 3.6 1.7 3.8 1.6 2.2 1.7-.1 1.7-2 1.7-4 1.7-5.6 1.7-8 1.7-7.4 1.7-5.8 1.7-4.4 1.7 .1 1.7 .7 1.7 2.6 1.6 8.4 1.7 8.8 1.7 7.3 1.7 10.1 1.7 10.1 1.7 3.8 1.7-1 1.7-5.5 1.7-10.5 1.7-15.4 1.7-14.9 1.6-9.3 1.7-2.9 1.7 1.8 1.7 7.8 1.7 7.3 1.7 7.7 1.7 2.8 1.7-.9 1.7-5.6 1.7-4.2 1.7-2 1.6-6.6 1.7 1.1 1.7 1.3 1.7 .6 1.7 1 1.7 .2 1.7-.4 1.7 3.2 1.7 2.7 1.7 3 1.7 5.9 1.6 4.1 1.7 3.2 1.7 5.3 1.7 2.2" stroke="#8c564b" stroke-width="0.5" fill="none" stroke-opacity="0.4" stroke-linejoin="round"/>
<path d="M31.6 476.1l1.7-.4 1.7 .5 1.7 1.7 1.7 2.8 1.7 2 1.6 1.8 1.7 1.2 1.7-.7 1.7 2.8 1.7-.5 1.7 .2 1.7-2.2 1.7-2.1 1.7-.5 1.7-.3 1.7-1.8 1.6 0 1.7-.1 1.7-.3 1.7 2 1.7 1.3 1.7-.7 1.7 1.2 1.7 .6 1.7 1.9 1.7 1.7 1.7 0 1.7-.5 1.6-1.8 1.7-2.3 1.7-1.5 1.7 1.6 1.7-.4 1.7 .4 1.7 1.8 1.7-1.3 1.7 .3 1.7-.8 1.7-.2 1.6 .2 1.7-1.9 1.7 1.9 1.7 .2 1.7 .8 1.7 0 1.7 .7 1.7-2.5 1.7-1.2 1.7-.6 1.7 0 1.6 1.4 1.7 2.2 1.7 1.1 1.7 1 1.7-1.8 1.7-1.1 1.7 .9 1.7 .1 1.7 .3 1.7 2.9 1.7-.2 1.6 .3 1.7-.7 1.7-.6 1.7-.7" stroke="#9467bd" stroke-width="0.5" fill="none" stroke-opacity="0.4" stroke-linejoin="round"/>
<path d="M31.6 489.7l1.7 2.6 1.7 1.3 1.7 1.5 1.7 .5 1.7-1.4 1.6-1.9 1.7 0 1.7 1 1.7-3 1.7 1.1 1.7 1.8 1.7 1.5 1.7 2 1.7 .3 1.7-1.6 1.7-3.2 1.6-2.6 1.7-4.9 1.7-.8 1.7-4.8 1.7 .7 1.7-.4 1.7 1.4 1.7 .6 1.7 3.7 1.7 1.1 1.7 .2 1.7-1.5 1.6-4.7 1.7-2.8 1.7-.4 1.7 4.2 1.7 3.2 1.7 3 1.7 1.5 1.7 1.6 1.7-.9 1.7 2.1 1.7-2.1 1.6-2.4 1.7-4.3 1.7-2 1.7-3.9 1.7 1.9 1.7 1.5 1.7 4 1.7 1.3 1.7-2.3 1.7-1.3 1.7-.8 1.6 2.4 1.7 1 1.7 2.8 1.7-.5 1.7 .5 1.7-.1 1.7 .3 1.7 .6 1.7 3.7 1.7 1.5 1.7 1.8 1.6 2.8 1.7 5.4 1.7 5.5 1.7 4.7" stroke="#d62728" stroke-width="0.5" fill="none" stroke-opacity="0.4" stroke-linejoin="round"/>
<path d="M31.6 478.9l1.7-1.6 1.7-2.2 1.7-.2 1.7 .2 1.7-.3 1.6-2.2 1.7-3.4 1.7-1 1.7-.1 1.7 1.6 1.7 4 1.7 .9 1.7 .6 1.7-1.5 1.7-3.6 1.7-3.6 1.6-.9 1.7 .4 1.7 .8 1.7 2.4 1.7 3.4 1.7 .9 1.7-.4 1.7 .7 1.7 .6 1.7 .5 1.7-.8 1.7 2.3 1.6-.5 1.7 .8 1.7 1 1.7-1.2 1.7-.3 1.7-2.1 1.7-1.9 1.7-1.9 1.7-.2 1.7 2.8 1.7 2.1 1.6 3.9 1.7-.1 1.7 1.4 1.7-1.7 1.7-2.5 1.7-1.3 1.7-2.2 1.7-.3 1.7-.6 1.7 .8 1.7-1.8 1.6 2.5 1.7 1 1.7 1.3 1.7 0 1.7 .4 1.7-1.9 1.7-2.2 1.7-2.3 1.7-.7 1.7 .2 1.7 2 1.6 2 1.7 3.7 1.7 1.5 1.7 1.6" stroke="#7f7f7f" stroke-width="0.5" fill="none" stroke-opacity="0.4" stroke-linejoin="round"/>
<path d="M31.6 479l1.7 1.3 1.7 3.3 1.7 2.6 1.7 1.6 1.7-.1 1.6-1.1 1.7 .2 1.7-.3 1.7 1.7 1.7 1.9 1.7 .9 1.7 .5 1.7-2.4 1.7-4 1.7-5.1 1.7-3.7 1.6-1.3 1.7-.7 1.7 .8 1.7 3.1 1.7 5.8 1.7 4.9 1.7 3.8 1.7 4.3 1.7 .9 1.7 .1 1.7-.2 1.7-2.2 1.6-4.2 1.7-2.6 1.7-2 1.7-.7 1.7-.7 1.7-.2 1.7 0 1.7-1.9 1.7-.2 1.7-.1 1.7 2.4 1.6 1.5 1.7 4.2 1.7 3.3 1.7 1.4 1.7 .6 1.7-.3 1.7-1.5 1.7-.7 1.7-1.6 1.7 1 1.7-.2 1.6 1.6 1.7-1 1.7 .9 1.7 .2 1.7 .2 1.7-1.6 1.7-1 1.7-.9 1.7-1.5 1.7-.7 1.7 .1 1.6 1.3 1.7 .5 1.7 .3 1.7-.4" stroke="#d62728" stroke-width="0.5" fill="none" stroke-opacity="0.4" stroke-linejoin="round"/>
<path d="M31.6 471.8l1.7 3.4 1.7 5.4 1.7 4.6 1.7-2.4 1.7-2.9 1.6-3.2 1.7-.5 1.7-3.1 1.7 1.2 1.7 3 1.7 2.3 1.7 1.3 1.7 .9 1.7 3.3 1.7 1.1 1.7-.2 1.6 2.7 1.7 2.9 1.7-.6 1.7-1 1.7-2.2 1.7-3.1 1.7-2.4 1.7-1.9 1.7 .6 1.7 2.7 1.7 3.8 1.7 3.7 1.6 3.9 1.7-.2 1.7-3.1 1.7-1.7 1.7-2.5 1.7 .3 1.7-1.2 1.7-.8 1.7-.5 1.7-.7 1.7-.3 1.6 2 1.7 .6 1.7 1.8 1.7 .4 1.7-.4 1.7-.8 1.7-.6 1.7-2.1 1.7-1.4 1.7-2.7 1.7-1.8 1.6-2.2 1.7-.9 1.7-2.6 1.7 1.6 1.7-.2 1.7-1.3 1.7 1.2 1.7 3.4 1.7 2.6 1.7 1.4 1.7 1 1.6 .4 1.7-2.4 1.7-4.2 1.7-2.4" stroke="#1f77b4" stroke-width="0.5" fill="none" stroke-opacity="0.4" stroke-linejoin="round"/>
<path d="M31.6 492.6l1.7 .9 1.7 .5 1.7 .7 1.7 .4 1.7-.8 1.6-1.7 1.7-1.5 1.7 1 1.7-1.4 1.7-1.7 1.7-.5 1.7-3.7 1.7-.8 1.7 .4 1.7-.2 1.7 .3 1.6-.2 1.7 .8 1.7-.9 1.7 .5 1.7 1 1.7 .7 1.7-1 1.7-2.3 1.7-1.2 1.7-1 1.7-2.3 1.7 2.2 1.6 2.7 1.7 2.8 1.7 .5 1.7 2 1.7 1 1.7-.1 1.7 .3 1.7 .5 1.7-.5 1.7-1.5 1.7-1.8 1.6-1.6 1.7 1.3 1.7 2.2 1.7 4.3 1.7 4 1.7 3 1.7-1.2 1.7-1.3 1.7-2.3 1.7-2.6 1.7-.6 1.6-1.8 1.7-3.2 1.7-1.4 1.7-1 1.7 .4 1.7 .2 1.7 .6 1.7-1 1.7-1.3 1.7-.5 1.7-.9 1.6 .8 1.7-.7 1.7 .7 1.7 1.1" stroke="#17becf" stroke-width="0.5" fill="none" stroke-opacity="0.4" stroke-linejoin="round"/>
<path d="M31.6 465.8l1.7 1.5 1.7 0 1.7-1.1 1.7-2.2 1.7-1.8 1.6-1 1.7 1.2 1.7 4.3 1.7 4 1.7 4.4 1.7 3.6 1.7 4.4 1.7 2.5 1.7 .2 1.7-2.4 1.7-2.2 1.6-7.7 1.7-2.8 1.7-2.2 1.7 .9 1.7 .9 1.7 3.4 1.7 1.1 1.7 1.8 1.7 .4 1.7 .4 1.7-.4 1.7-2 1.6-3.1 1.7-.6 1.7-2 1.7 2.4 1.7 3.4 1.7 4.5 1.7 .5 1.7 .6 1.7-2.9 1.7 .3 1.7-4.1 1.6-2.4 1.7-1.5 1.7 .2 1.7-.5 1.7 4.5 1.7 .8 1.7 .5 1.7-.8 1.7-1.4 1.7-1.5 1.7-.4 1.6 1 1.7 4.4 1.7 4.8 1.7 .3 1.7 1.6 1.7-1.5 1.7-1.6 1.7-3.3 1.7 2.1 1.7-1.4 1.7-2.5 1.6-5.2 1.7-5.6 1.7-5.2 1.7-4.3" stroke="#2ca02c" stroke-width="0.5" fill="none" stroke-opacity="0.4" stroke-linejoin="round"/>
<path d="M31.6 478.5l1.7-2.8 1.7-3.3 1.7-2.1 1.7-.3 1.7 1.2 1.6 8.3 1.7 4.9 1.7 4 1.7 .5 1.7-.3 1.7-2.6 1.7 .2 1.7 .4 1.7 .5 1.7-3.6 1.7-5.5 1.6-2.5 1.7 1.1 1.7 3.4 1.7 6.8 1.7 3.6 1.7 .5 1.7-1.8 1.7-3.6 1.7-6 1.7-8.3 1.7-5.1 1.7-2.9 1.6 2.3 1.7 3.6 1.7 6.9 1.7 5.2 1.7 2.1 1.7-1.8 1.7-4.1 1.7-1 1.7 .7 1.7 3.9 1.7 2.9 1.6 2.4 1.7-3.1 1.7-3.5 1.7-1.8 1.7 1.7 1.7 3.5 1.7 5.1 1.7 7.1 1.7 2.3 1.7-.5 1.7-.1 1.6-.3 1.7-1.9 1.7-1.4 1.7-.3 1.7-.2 1.7-1.4 1.7-1.9 1.7-3.6 1.7-.7 1.7 .2 1.7 4.2 1.6 2.9 1.7 1.4 1.7-1 1.7-.4" stroke="#9467bd" stroke-width="0.5" fill="none" stroke-opacity="0.4" stroke-linejoin="round"/>
<path d="M31.6 493.7l1.7-.1 1.7-1.9 1.7-3 1.7-4.3 1.7-1.2 1.6-1.8 1.7 .7 1.7-.1 1.7 4.8 1.7 3.6 1.7 4.8 1.7 1.6 1.7 .4 1.7-3.8 1.7-3.4 1.7-2.5 1.6-.8 1.7-.4 1.7 .9 1.7 1.4 1.7 1 1.7 1 1.7 3 1.7 .8 1.7-1.4 1.7 .3 1.7 0 1.7-1.5 1.6-2.6 1.7-.3 1.7 1.6 1.7 3 1.7 1.7 1.7 2.1 1.7 .2 1.7-2.3 1.7 1.2 1.7 2.3 1.7 .8 1.6 2.1 1.7-.9 1.7-4.9 1.7-5.5 1.7-3.8 1.7-1.2 1.7-.5 1.7 .7 1.7 2.8 1.7 2.2 1.7 0 1.6-1.3 1.7 3.3 1.7-.6 1.7 1.7 1.7 1.2 1.7 2.3 1.7 .3 1.7-.8 1.7-1.7 1.7-2.4 1.7-3.5 1.6-3.7 1.7-2.3 1.7-1.7 1.7-2.1" stroke="#bcbd22" stroke-width="0.5" fill="none" stroke-opacity="0.4" stroke-linejoin="round"/>
<path d="M31.6 467.4l1.7 1.6 1.7 1.3 1.7-.1 1.7 2.8 1.7 1.5 1.6 1.8 1.7-.8 1.7 .7 1.7 .3 1.7 2 1.7-.8 1.7 .5 1.7-.3 1.7 0 1.7-.4 1.7-.3 1.6-1.9 1.7-.1 1.7 1.2 1.7 .7 1.7 0 1.7 .9 1.7 0 1.7 .8 1.7 1.2 1.7-1.3 1.7-.8 1.7-2.1 1.6-2.6 1.7-.9 1.7-.1 1.7 1 1.7 .3 1.7 1.5 1.7 1.4 1.7 3.1 1.7 2.8 1.7 .7 1.7 .9 1.6-1.8 1.7-1.4 1.7 .4 1.7 .8 1.7-1.3 1.7-1 1.7-1.2 1.7-2.4 1.7-1.3 1.7-.2 1.7-.3 1.6-1.5 1.7-.9 1.7-1.5 1.7 1 1.7 .2 1.7-.2 1.7 .2 1.7 1.7 1.7 1.8 1.7 2.6 1.7 1.7 1.6 2.3 1.7 1 1.7 1.2 1.7 .2" stroke="#bcbd22" stroke-width="0.5" fill="none" stroke-opacity="0.4" stroke-linejoin="round"/>
<path d="M31.6 486.1l1.7-1.4 1.7-.3 1.7 .9 1.7 .2 1.7-1.3 1.6-2.9 1.7-1.1 1.7-2.4 1.7-.1 1.7 1.4 1.7 3.4 1.7 .4 1.7 2.2 1.7 2.3 1.7 2.1 1.7 .2 1.6-.3 1.7 .4 1.7 .6 1.7 .9 1.7 1.1 1.7 2.3 1.7-2.1 1.7-1.8 1.7-.2 1.7-1 1.7-1.6 1.7-2.3 1.6 .5 1.7-2.3 1.7-1.8 1.7-1.8 1.7-.3 1.7-2.6 1.7-2.8 1.7 .8 1.7 2.6 1.7 2.2 1.7 2.7 1.6 3.9 1.7 4.1 1.7 .2 1.7-1.1 1.7-1.5 1.7-2.1 1.7-2.1 1.7-.3 1.7 .1 1.7-.1 1.7-.1 1.6-1 1.7 2.1 1.7-.2 1.7-.2 1.7-.6 1.7-1.5 1.7 .2 1.7-.5 1.7 2.3 1.7 2.5 1.7 5.1 1.6 1.7 1.7 .9 1.7-1.9 1.7-2.3" stroke="#17becf" stroke-width="0.5" fill="none" stroke-opacity="0.4" stroke-linejoin="round"/>
<path d="M31.6 507.4l1.7-6.1 1.7-8.2 1.7-3.8 1.7-1.7 1.7-1 1.6-.7 1.7-.6 1.7-2.8 1.7-3.5 1.7-2 1.7-.5 1.7 1.3 1.7 2.4 1.7 2.7 1.7 5.7 1.7 2 1.6 4.5 1.7 2.3 1.7-.1 1.7-.8 1.7 1.6 1.7 2.1 1.7 3.7 1.7 .2 1.7-.5 1.7-1.2 1.7-3.5 1.7-6.4 1.6-5.8 1.7-5.2 1.7-5.6 1.7 .3 1.7 3 1.7 6.8 1.7 5.3 1.7 6 1.7 4 1.7 5.1 1.7 4.9 1.6 7.4 1.7 6.1 1.7 3.8 1.7-.4 1.7-6.1 1.7-6.9 1.7-7.1 1.7-8.4 1.7-7.4 1.7-2.1 1.7-.7 1.6 3.7 1.7 4.4 1.7 3.9 1.7 4.6 1.7 .2 1.7-3.1 1.7-2.7 1.7-7.2 1.7-9.4 1.7-3.9 1.7-1.5 1.6 3.1 1.7 10.1 1.7 9.2 1.7 6.9" stroke="#bcbd22" stroke-width="0.5" fill="none" stroke-opacity="0.4" stroke-linejoin="round"/>
<path d="M31.6 489.8l1.7-.3 1.7 0 1.7-1.8 1.7-2.6 1.7-2.4 1.6-4.2 1.7-.7 1.7 .2 1.7 2.5 1.7 0 1.7 .4 1.7-4.1 1.7-.5 1.7 2.4 1.7 1.7 1.7 .8 1.6 2.3 1.7 1.4 1.7 .5 1.7 1.1 1.7 1.2 1.7 0 1.7-3.1 1.7-1.1 1.7 0 1.7 1.1 1.7-.9 1.7 .7 1.6 2.3 1.7-.8 1.7 1.4 1.7 .8 1.7-2.3 1.7-2.1 1.7-3.4 1.7-1.9 1.7-2.3 1.7-.1 1.7 .6 1.6 1.4 1.7 .8 1.7-.3 1.7 1.2 1.7-1.1 1.7 .5 1.7 3 1.7 .7 1.7 .7 1.7-1 1.7 4.1 1.6 2.6 1.7 1.3 1.7-.1 1.7 1.6 1.7 .1 1.7-1.5 1.7-.5 1.7 2.6 1.7 .9 1.7-.1 1.7-.9 1.6-2 1.7-4.2 1.7-4.8 1.7-.8" stroke="#17becf" stroke-width="0.5" fill="none" stroke-opacity="0.4" stroke-linejoin="round"/>
<path d="M31.6 468.1l1.7 1.7 1.7 3.5 1.7 2.3 1.7 3.7 1.7 5.1 1.6 4.7 1.7 1.9 1.7-1.7 1.7-6.6 1.7-5 1.7-4.5 1.7-1.5 1.7-.2 1.7 .8 1.7 .7 1.7 2.6 1.6 4.2 1.7 1.3 1.7 2.5 1.7-1.5 1.7 1.8 1.7-2.3 1.7-1.5 1.7-1.7 1.7 1 1.7 .8 1.7 2 1.7 1.6 1.6 1.3 1.7 0 1.7-.3 1.7-1.9 1.7-3.5 1.7-3.6 1.7-1.5 1.7-.3 1.7 2.4 1.7 2.9 1.7 7.6 1.6 7.2 1.7 4.4 1.7-.8 1.7 2.3 1.7-2.6 1.7-4 1.7-4 1.7-1 1.7-3.8 1.7-3.3 1.7-1.5 1.6 2.9 1.7 1 1.7-1.5 1.7 .7 1.7 .5 1.7-2.1 1.7-.1 1.7 3.1 1.7 4.1 1.7 4.6 1.7 4.2 1.6 4.4 1.7 4.4 1.7 4.9 1.7 .9" stroke="#2ca02c" stroke-width="0.5" fill="none" stroke-opacity="0.4" stroke-linejoin="round"/>
<path d="M31.6 484.6l1.7-3.8 1.7-3.3 1.7-4.1 1.7-2.4 1.7-1.2 1.6 .7 1.7 .3 1.7-.9 1.7 .8 1.7 .8 1.7 2.4 1.7 1.6 1.7 4.2 1.7 2.7 1.7-.1 1.7-1.4 1.6-.8 1.7-1.5 1.7 .9 1.7-2.1 1.7-.7 1.7-.8 1.7-.4 1.7 .4 1.7-.4 1.7 .3 1.7-.4 1.7 5 1.6 4.8 1.7 4.4 1.7 1.9 1.7-.9 1.7-2.5 1.7-3 1.7-5.3 1.7-3.2 1.7-2.4 1.7-.7 1.7 .6 1.6 .5 1.7 0 1.7-2.5 1.7-1.6 1.7-1.5 1.7 1 1.7-2.2 1.7-1.6 1.7-2.4 1.7-2.6 1.7-1.1 1.6 1 1.7 3.4 1.7 7 1.7 6.2 1.7 3.6 1.7-1 1.7 1.5 1.7-1.6 1.7-1.4 1.7-2.3 1.7-.6 1.6 .7 1.7-2.8 1.7-1.2 1.7 .5" stroke="#17becf" stroke-width="0.5" fill="none" stroke-opacity="0.4" stroke-linejoin="round"/>
<path d="M31.6 467l1.7 4.2 1.7 4.4 1.7 2.6 1.7 2.2 1.7 .7 1.6 3.6 1.7 1.5 1.7 2.1 1.7 1.3 1.7 1.5 1.7-2.7 1.7 .2 1.7-2.9 1.7-3.3 1.7-3.6 1.7-.1 1.6 .1 1.7 .9 1.7 .7 1.7 2.5 1.7 2.3 1.7-.1 1.7 1.2 1.7 2.6 1.7 .2 1.7 0 1.7 0 1.7-.9 1.6-1.5 1.7-.1 1.7 .8 1.7 1.9 1.7-.5 1.7-3.2 1.7-2.3 1.7-2.3 1.7-.6 1.7-.8 1.7 1.4 1.6-1.6 1.7-.4 1.7-3.1 1.7-1.3 1.7-1.9 1.7 .8 1.7 2 1.7 3.8 1.7 3.4 1.7-.3 1.7 .2 1.6-2.6 1.7-1.1 1.7-1.8 1.7-.2 1.7 1.3 1.7 2.2 1.7 3.9 1.7 2.4 1.7 1.9 1.7 .1 1.7-.1 1.6 2.1 1.7 .9 1.7 3 1.7 1.1" stroke="#bcbd22" stroke-width="0.5" fill="none" stroke-opacity="0.4" stroke-linejoin="round"/>
<path d="M31.6 478.6l1.7 .2 1.7 2.1 1.7 1.4 1.7 .4 1.7 1.1 1.6 .1 1.7 .7 1.7 .3 1.7-1 1.7 1.6 1.7 .1 1.7 .4 1.7 .5 1.7 .9 1.7-1.2 1.7-1.2 1.6-1.6 1.7-3 1.7-.1 1.7-.5 1.7-.4 1.7-.7 1.7 .6 1.7 .1 1.7 2 1.7 2.3 1.7 1.4 1.7-.9 1.6-1.8 1.7 .4 1.7-1.6 1.7 .2 1.7 .8 1.7 1.2 1.7 1.5 1.7-.8 1.7 .2 1.7 3.4 1.7 .7 1.6 .5 1.7 .7 1.7 .4 1.7-3.3 1.7-.9 1.7-.9 1.7-.6 1.7-.4 1.7-1.2 1.7 1 1.7-.1 1.6-.1 1.7 1.8 1.7 2.8 1.7 2.6 1.7 1.5 1.7 1.2 1.7-.6 1.7-.8 1.7-1.2 1.7-2.2 1.7-2 1.6-2.4 1.7-.4 1.7-1.2 1.7-.7" stroke="#2ca02c" stroke-width="0.5" fill="none" stroke-opacity="0.4" stroke-linejoin="round"/>
<path d="M31.6 494.7l1.7 .4 1.7-2.4 1.7-2.2 1.7-2.9 1.7-5 1.6-4.8 1.7-2.5 1.7 1.2 1.7 2.6 1.7 5.2 1.7 2.8 1.7-.2 1.7 .3 1.7-1.8 1.7 3.1 1.7 .5 1.6 2.8 1.7 .2 1.7-.9 1.7-3.9 1.7-.5 1.7 1.7 1.7 4.7 1.7 2.8 1.7 3.6 1.7 0 1.7-.9 1.7-2.8 1.6-1.9 1.7-4.1 1.7-2.2 1.7-4.4 1.7-1.8 1.7-.7 1.7 2.3 1.7 3.5 1.7 6.1 1.7 4.9 1.7 2.9 1.6 1.9 1.7 .3 1.7 1.6 1.7-2.9 1.7-.7 1.7-1.7 1.7 1.6 1.7 .5 1.7 .9 1.7-1.5 1.7-2.6 1.6-1.3 1.7-3.5 1.7-3.3 1.7-3.9 1.7-2.3 1.7-2.1 1.7-1.7 1.7 1.5 1.7 0 1.7-1 1.7-.3 1.6-.8 1.7-.2 1.7-.1 1.7 .6" stroke="#17becf" stroke-width="0.5" fill="none" stroke-opacity="0.4" stroke-linejoin="round"/>
<path d="M31.6 471.5l1.7 2.8 1.7 3.2 1.7 1.6 1.7 .7 1.7-1.3 1.6 .3 1.7-1.2 1.7 0 1.7 .9 1.7 1 1.7 1 1.7 .7 1.7-1.6 1.7-1.3 1.7-1.4 1.7-.4 1.6 .9 1.7 3.4 1.7 1.6 1.7 .8 1.7-2.3 1.7-.1 1.7-1.3 1.7-.2 1.7-.8 1.7 1.5 1.7 .3 1.7-.1 1.6 .2 1.7 1.1 1.7 3.3 1.7 2.8 1.7 3.3 1.7 .9 1.7-2.2 1.7-.5 1.7-2.1 1.7-1 1.7 0 1.6 .6 1.7-.5 1.7 .2 1.7 2.8 1.7 1.5 1.7 2 1.7-.8 1.7 1.8 1.7-2.5 1.7-1.9 1.7-4.3 1.6-1.4 1.7-3 1.7 .7 1.7 2.3 1.7 .4 1.7-1.1 1.7-1.3 1.7 .3 1.7 .6 1.7 1.9 1.7 2.4 1.6 1.9 1.7 .7 1.7-.2 1.7 .8" stroke="#bcbd22" stroke-width="0.5" fill="none" stroke-opacity="0.4" stroke-linejoin="round"/>
<path d="M31.6 509.9l1.7-2.5 1.7-5.8 1.7-7.3 1.7-5.4 1.7-2.5 1.6 .2 1.7 4.6 1.7 2.6 1.7 5.1 1.7 1 1.7 .7 1.7-1.5 1.7 1.2 1.7-.1 1.7-1.7 1.7-2.6 1.6-4.2 1.7-2.9 1.7-2.7 1.7-.3 1.7-.7 1.7-1 1.7-.3 1.7-.7 1.7 .8 1.7 .9 1.7 .8 1.7 .4 1.6 .6 1.7-.3 1.7 2.7 1.7-.6 1.7 1.8 1.7 .8 1.7 3.6 1.7-1 1.7 .8 1.7-1.6 1.7-4.1 1.6-3.5 1.7-.6 1.7 3.8 1.7 2.9 1.7 3.5 1.7 1.8 1.7-.1 1.7-3.1 1.7-3.2 1.7-4.3 1.7 2.9 1.6-.3 1.7 3.3 1.7 1.6 1.7 4 1.7-1.1 1.7-.7 1.7 .4 1.7 .3 1.7-.3 1.7-1.5 1.7-1 1.6 2 1.7 2.5 1.7 5.5 1.7 3.6" stroke="#bcbd22" stroke-width="0.5" fill="none" stroke-opacity="0.4" stroke-linejoin="round"/>
<path d="M31.6 489.9l1.7 .3 1.7 1.4 1.7-.2 1.7-.7 1.7-3.8 1.6-3.1 1.7-2.8 1.7-.9 1.7-1.8 1.7-2.1 1.7-1.8 1.7 .6 1.7 0 1.7 3.3 1.7 .6 1.7 .7 1.6-.1 1.7 1.9 1.7 1.9 1.7 0 1.7 2.2 1.7 1.6 1.7 1.6 1.7 1.2 1.7-1.1 1.7-.8 1.7-3.3 1.7-.9 1.6 .7 1.7 1.2 1.7 .9 1.7-.5 1.7-.3 1.7-.2 1.7 1.3 1.7 3.8 1.7 .2 1.7-.8 1.7-1.1 1.6-1.2 1.7-3.4 1.7-.1 1.7 .3 1.7 .2 1.7-.3 1.7 1.3 1.7-.9 1.7-1.2 1.7-1.2 1.7 1.9 1.6 1.3 1.7-.8 1.7-.5 1.7-1.6 1.7-.2 1.7-3.3 1.7 2.9 1.7-1.4 1.7-.6 1.7-2.4 1.7 1.7 1.6 2.1 1.7 4.1 1.7 4.3 1.7 3" stroke="#e377c2" stroke-width="0.5" fill="none" stroke-opacity="0.4" stroke-linejoin="round"/>
<path d="M31.6 473.2l1.7-.5 1.7 0 1.7-3.7 1.7 .4 1.7 1.1 1.6 3.3 1.7 .9 1.7 2.2 1.7 1.5 1.7 .5 1.7-1.2 1.7 .6 1.7-1.2 1.7-1.3 1.7-1.7 1.7 1.9 1.6 2.3 1.7 2.2 1.7 1.6 1.7-1.2 1.7-2.6 1.7-4.1 1.7 .1 1.7-.6 1.7-1.8 1.7 .2 1.7 .4 1.7 1.1 1.6 .4 1.7 2.6 1.7 3.2 1.7 3.4 1.7 1.8 1.7 1.8 1.7-2.3 1.7-4.7 1.7-5.2 1.7-4.6 1.7-2.6 1.6 2.6 1.7 5.4 1.7 5.2 1.7 1.7 1.7-.1 1.7-1.3 1.7-2.1 1.7 1.3 1.7 1.8 1.7 4.2 1.7 1.5 1.6 2 1.7-.4 1.7-3.5 1.7-3.8 1.7-3.6 1.7 1.2 1.7 1 1.7 3.2 1.7 1.2 1.7-.6 1.7-.8 1.6-1.6 1.7-1.5 1.7-.9 1.7-1.1" stroke="#bcbd22" stroke-width="0.5" fill="none" stroke-opacity="0.4" stroke-linejoin="round"/>
<path d="M31.6 494.5l1.7-.4 1.7-.3 1.7 .4 1.7-2.7 1.7-3.6 1.6-4.1 1.7-3.8 1.7-1.2 1.7 .5 1.7 3.8 1.7 4.4 1.7 5.3 1.7 4.5 1.7 .4 1.7-2.5 1.7-3.9 1.6-4.2 1.7-3.1 1.7-2.1 1.7 2.3 1.7 .8 1.7 2.1 1.7 2.8 1.7 3.5 1.7 .4 1.7-1.2 1.7-.1 1.7-1 1.6-1.7 1.7-1.4 1.7 1.7 1.7 1.8 1.7 1.3 1.7-.8 1.7-.4 1.7-1.5 1.7-1.7 1.7 .3 1.7-.8 1.6-1.7 1.7 2.2 1.7 2 1.7 .6 1.7 .6 1.7 1.3 1.7 .8 1.7 1.8 1.7 .1 1.7-.5 1.7-1.5 1.6-1.1 1.7 1 1.7 2.5 1.7-.3 1.7 .7 1.7 .1 1.7-2.9 1.7-1.3 1.7-1.1 1.7 .8 1.7 2 1.6 4.2 1.7 4 1.7 4.6 1.7 1.7" stroke="#8c564b" stroke-width="0.5" fill="none" stroke-opacity="0.4" stroke-linejoin="round"/>
<path d="M31.6 481.7l1.7 1.7 1.7 3.8 1.7 5.4 1.7 4.1 1.7 1.7 1.6-.1 1.7-.5 1.7-2.5 1.7 0 1.7-1.5 1.7-.2 1.7-2 1.7-.2 1.7 .2 1.7-1.9 1.7-3.1 1.6-1.2 1.7 .9 1.7-1.6 1.7-1.3 1.7 .5 1.7-3.6 1.7-5.7 1.7-3.8 1.7-3.5 1.7-2.4 1.7-.8 1.7-.1 1.6 0 1.7 8 1.7 4.4 1.7 8.2 1.7 7.6 1.7 10.6 1.7 5.5 1.7 5.5 1.7 .1 1.7 1 1.7 1.7 1.6-2.1 1.7-1.6 1.7 2 1.7-2.4 1.7-.6 1.7 .6 1.7 1.4 1.7 3 1.7-1 1.7-1.3 1.7-2.4 1.6 1 1.7-3.4 1.7-3.8 1.7-5.2 1.7-6.7 1.7-3.6 1.7-3.7 1.7 1 1.7-.2 1.7 3.6 1.7 3.7 1.6 4.2 1.7 3.7 1.7 5 1.7 4.6" stroke="#7f7f7f" stroke-width="0.5" fill="none" stroke-opacity="0.4" stroke-linejoin="round"/>
<path d="M31.6 488.7l1.7 4.5 1.7 5.3 1.7 2.2 1.7-1 1.7-2.4 1.6-4.2 1.7 .8 1.7 1.4 1.7 2.4 1.7-2.6 1.7-1.6 1.7-3.4 1.7-2.5 1.7-1.5 1.7 3.7 1.7 3.1 1.6-.6 1.7-2.9 1.7-1.9 1.7-3.5 1.7-.9 1.7-2 1.7-.9 1.7 1.6 1.7 1.3 1.7 2.8 1.7 1.8 1.7 1.6 1.6-1.2 1.7-2.6 1.7-1.4 1.7 3 1.7 2.2 1.7 6 1.7 6.2 1.7 4.1 1.7-1.1 1.7-.6 1.7-1.8 1.6-.6 1.7-.6 1.7-.5 1.7 .7 1.7-1 1.7-2.4 1.7 2 1.7 .4 1.7 3.7 1.7-1 1.7 .8 1.6-1.7 1.7-.9 1.7-4 1.7-1.3 1.7 .6 1.7 .4 1.7-2.7 1.7-3.4 1.7-3 1.7-.3 1.7 .4 1.6 1.9 1.7 1.1 1.7-2.5 1.7-2.5" stroke="#ff7f0e" stroke-width="0.5" fill="none" stroke-opacity="0.4" stroke-linejoin="round"/>
<path d="M31.6 488.2l1.7 .6 1.7-.2 1.7-2.2 1.7-.8 1.7-.2 1.6 .4 1.7-1.2 1.7 .4 1.7 1.2 1.7-.7 1.7-1.2 1.7-1.5 1.7-.8 1.7-.6 1.7 0 1.7 3.1 1.6 2.4 1.7-1 1.7-.4 1.7-1.7 1.7-2.1 1.7-3.4 1.7-1.3 1.7 .9 1.7 1.8 1.7 1 1.7 2.7 1.7 .7 1.6-.2 1.7-.9 1.7 1.5 1.7-.7 1.7 1.9 1.7 3.2 1.7 3.8 1.7 2.5 1.7-2.1 1.7-3.2 1.7 .5 1.6-.7 1.7 .6 1.7 1.6 1.7 3.1 1.7 .1 1.7 1.1 1.7 .1 1.7-2.9 1.7-2.8 1.7-2.7 1.7-1.4 1.6 .1 1.7-2.1 1.7 1.5 1.7-1.8 1.7-.8 1.7-.8 1.7 1.7 1.7-2.3 1.7 2.1 1.7 3 1.7 3.8 1.6 .2 1.7 .6 1.7-2.5 1.7-.7" stroke="#17becf" stroke-width="0.5" fill="none" stroke-opacity="0.4" stroke-linejoin="round"/>
<path d="M31.6 478.9l1.7 .2 1.7 .4 1.7-.8 1.7-1.3 1.7-1.4 1.6-2 1.7-3.6 1.7-2.3 1.7-.8 1.7-.2 1.7 2.2 1.7 3 1.7 4.9 1.7 4.1 1.7 .8 1.7 2.2 1.6-.2 1.7 .1 1.7-.1 1.7-.6 1.7-.8 1.7-3.1 1.7-1.5 1.7-1.6 1.7-.4 1.7-.6 1.7-.2 1.7 0 1.6-1.3 1.7 1.1 1.7 1.3 1.7-1 1.7 2.9 1.7 1.6 1.7 1.7 1.7 0 1.7 1.2 1.7 .5 1.7-.8 1.6-2.3 1.7 .4 1.7 .9 1.7 .6 1.7 2.2 1.7 2.3 1.7 .4 1.7-1.4 1.7-.2 1.7-.4 1.7 .2 1.6-.7 1.7 .5 1.7-.8 1.7 .2 1.7-.2 1.7 1.4 1.7-1.3 1.7-.9 1.7-2.2 1.7 1.5 1.7 1.9 1.6 .2 1.7-1.7 1.7-4 1.7-3.8" stroke="#7f7f7f" stroke-width="0.5" fill="none" stroke-opacity="0.4" stroke-linejoin="round"/>
<path d="M31.6 473.2l1.7 1.1 1.7 0 1.7-1.2 1.7-2.1 1.7-1.7 1.6-.5 1.7 1.5 1.7 2.8 1.7 3.4 1.7 2 1.7 1.8 1.7 .1 1.7 0 1.7-.5 1.7-.1 1.7 .7 1.6 .6 1.7-2 1.7-1.1 1.7-3.1 1.7-2.7 1.7-2.7 1.7 .7 1.7 3.2 1.7 4.5 1.7 2.7 1.7 2 1.7 .1 1.6-2 1.7-2.5 1.7-.1 1.7-.4 1.7 .8 1.7-.1 1.7-.9 1.7-.8 1.7-2.6 1.7-1.3 1.7 1.4 1.6 1.1 1.7 .3 1.7 1 1.7 .4 1.7 0 1.7-2.5 1.7-2.5 1.7-.9 1.7 .8 1.7 2.4 1.7 2.3 1.6 1.3 1.7 0 1.7 .5 1.7 0 1.7-1.1 1.7-1.8 1.7-1.9 1.7 2 1.7 .1 1.7 .2 1.7 .7 1.6-.3 1.7 .3 1.7-.7 1.7 .4" stroke="#2ca02c" stroke-width="0.5" fill="none" stroke-opacity="0.4" stroke-linejoin="round"/>
<path d="M31.6 485.4l1.7-1.3 1.7-1.7 1.7-3.4 1.7-1.2 1.7-.8 1.6 1.8 1.7 1.2 1.7-1.1 1.7 2 1.7 1.3 1.7 .1 1.7-.6 1.7 .2 1.7-1.8 1.7-1.2 1.7 .5 1.6 .8 1.7 .8 1.7 0 1.7 1.4 1.7 .1 1.7-1 1.7-.2 1.7-1.8 1.7-2.2 1.7-2.3 1.7 2.4 1.7 4.6 1.6 6.3 1.7 4.8 1.7 2.7 1.7 .9 1.7-2.7 1.7-2.2 1.7-3 1.7-2.2 1.7-2.6 1.7-1.4 1.7-1.6 1.6 .7 1.7 2 1.7 0 1.7 .6 1.7 .6 1.7-.5 1.7 .3 1.7 1.1 1.7 1.5 1.7-.7 1.7-.3 1.6 .1 1.7 1.2 1.7 1.4 1.7 .4 1.7 .8 1.7-2.2 1.7-4.2 1.7-3.1 1.7-1.6 1.7-.2 1.7 .2 1.6 1.5 1.7 1.2 1.7 2.2 1.7 2.4" stroke="#17becf" stroke-width="0.5" fill="none" stroke-opacity="0.4" stroke-linejoin="round"/>
<path d="M31.6 488.5l1.7-2.3 1.7-3.6 1.7-3.4 1.7-2.4 1.7-1.5 1.6-.8 1.7 .6 1.7 2.6 1.7 1.8 1.7 0 1.7 2.6 1.7-3.1 1.7-.7 1.7-2.4 1.7 1.4 1.7 .3 1.6-.6 1.7 2 1.7 2.2 1.7 1.4 1.7-1.6 1.7 .4 1.7-.5 1.7-.2 1.7 1.4 1.7 .3 1.7 0 1.7-.2 1.6-1.3 1.7 0 1.7 1.4 1.7 1.4 1.7 2 1.7 2 1.7 .8 1.7-.4 1.7-3.1 1.7-4.6 1.7-3.9 1.6 .4 1.7-.3 1.7 1.4 1.7 .5 1.7-.7 1.7 .3 1.7 .7 1.7 2.2 1.7 2.6 1.7 1.7 1.7 0 1.6-1.5 1.7-.4 1.7-1.1 1.7-.4 1.7-1.2 1.7 1 1.7 .7 1.7-.5 1.7 .8 1.7 0 1.7-.1 1.6-1.2 1.7 0 1.7 1.5 1.7 2.6" stroke="#9467bd" stroke-width="0.5" fill="none" stroke-opacity="0.4" stroke-linejoin="round"/>
<path d="M31.6 481.1l1.7-1.3 1.7-2 1.7-.6 1.7-1.1 1.7 2.4 1.6 4.7 1.7 5.5 1.7 .9 1.7 1.7 1.7-.8 1.7-1 1.7-1.6 1.7 .5 1.7-.8 1.7 0 1.7-3.3 1.6-2.3 1.7-.8 1.7 2.1 1.7 2.7 1.7 3.3 1.7-.9 1.7-2.1 1.7-4.6 1.7-1.1 1.7-2.1 1.7 2.1 1.7 3.8 1.6 4.9 1.7 .7 1.7 .5 1.7-1.8 1.7-.8 1.7 .3 1.7 3.3 1.7 .7 1.7 .9 1.7-.3 1.7 2.6 1.6 .7 1.7-3.3 1.7-3.6 1.7-4.9 1.7-2 1.7-1.9 1.7 2.3 1.7 1.1 1.7 1.7 1.7 1.3 1.7 2.6 1.6-.3 1.7-1 1.7-1 1.7-1.3 1.7 .2 1.7 2.9 1.7 1.4 1.7-1.8 1.7-3.2 1.7-1.3 1.7 1.1 1.6 2.5 1.7 2.4 1.7 2.7 1.7 1.9" stroke="#9467bd" stroke-width="0.5" fill="none" stroke-opacity="0.4" stroke-linejoin="round"/>
<path d="M31.6 487.6l1.7 .5 1.7-.3 1.7-3.4 1.7-2 1.7-2.2 1.6-3.8 1.7-6.2 1.7 .8 1.7 2.9 1.7 4.6 1.7-1.1 1.7 3.4 1.7 3.7 1.7 1 1.7-4 1.7 1.6 1.6 1.8 1.7-.2 1.7-1.6 1.7 .4 1.7 3.2 1.7-1 1.7-4.3 1.7 1.1 1.7 1.3 1.7-.9 1.7 .1 1.7-.4 1.6-1 1.7-2.6 1.7-2.2 1.7 .2 1.7 2.3 1.7 1.9 1.7 1.6 1.7 1.1 1.7-3.4 1.7-.7 1.7 1.4 1.6 4.6 1.7 1.5 1.7 1.7 1.7 2.2 1.7-.1 1.7-3.9 1.7-6.3 1.7-4.2 1.7 .1 1.7 0 1.7 6.4 1.6 6.6 1.7 6.1 1.7 .8 1.7-.7 1.7-4.1 1.7-3.3 1.7-2.7 1.7-.1 1.7-.3 1.7-1 1.7 .9 1.6 0 1.7 .2 1.7 .3 1.7 0" stroke="#ff7f0e" stroke-width="0.5" fill="none" stroke-opacity="0.4" stroke-linejoin="round"/>
<path d="M31.6 486.9l1.7 1.3 1.7 .9 1.7 .7 1.7 .6 1.7 1.2 1.6 .2 1.7 1 1.7 .6 1.7 .1 1.7 .3 1.7 .3 1.7 .4 1.7-1.3 1.7-2.1 1.7-.4 1.7-2.6 1.6-.1 1.7 1 1.7 1.1 1.7 .4 1.7 2.7 1.7-1.3 1.7 .3 1.7 2.5 1.7 0 1.7-.2 1.7 0 1.7-1 1.6 .6 1.7 .2 1.7-.3 1.7 1.1 1.7 0 1.7-1.9 1.7 1.7 1.7-1.6 1.7-2 1.7-.7 1.7 1 1.6 2.2 1.7 2.6 1.7 .6 1.7-.8 1.7-1.1 1.7-1.1 1.7-.9 1.7-1.2 1.7 .4 1.7 2.5 1.7 .7 1.6 1.7 1.7-.4 1.7-.4 1.7-2.8 1.7-1.3 1.7-2.7 1.7-1.6 1.7-1.6 1.7 2.1 1.7 2.7 1.7 2.7 1.6 1.9 1.7 3.5 1.7 1.7 1.7 2.6" stroke="#d62728" stroke-width="0.5" fill="none" stroke-opacity="0.4" stroke-linejoin="round"/>
<path d="M31.6 475l1.7 2.2 1.7 4.7 1.7 1.1 1.7 3.2 1.7 2 1.6 3.9 1.7 1.4 1.7-1.6 1.7-3.3 1.7-5.9 1.7-5.3 1.7-3.5 1.7 1.9 1.7 2.9 1.7 2 1.7 2.6 1.6-1.2 1.7-2.5 1.7-2.2 1.7 .4 1.7 2.4 1.7 .3 1.7 1.3 1.7 .1 1.7-1.9 1.7-3.3 1.7-2.1 1.7 2.7 1.6 1.5 1.7 1.6 1.7-.7 1.7 .7 1.7-.8 1.7-.9 1.7 .9 1.7 1.8 1.7-.5 1.7 .7 1.7 2.3 1.6 2 1.7-1.4 1.7-1.7 1.7-1.8 1.7 1.3 1.7 0 1.7-.4 1.7-.6 1.7 .1 1.7 .2 1.7-.6 1.6 .7 1.7 1.7 1.7 4.3 1.7 .6 1.7 .7 1.7 .2 1.7-1.2 1.7-3.4 1.7-1.5 1.7 1 1.7-.5 1.6-2.9 1.7-1.7 1.7-2.3 1.7-1.3" stroke="#7f7f7f" stroke-width="0.5" fill="none" stroke-opacity="0.4" stroke-linejoin="round"/>
<path d="M31.6 484.9l1.7 2.4 1.7 1.7 1.7 .2 1.7 1.6 1.7-3.3 1.6-2 1.7-2.7 1.7-.7 1.7-.5 1.7 .6 1.7 .4 1.7 2.6 1.7 .3 1.7-.5 1.7-2.2 1.7-1.4 1.6-2.1 1.7 2.9 1.7 1.5 1.7 2 1.7 .9 1.7 1.3 1.7 0 1.7 .5 1.7-2 1.7 .6 1.7 1.2 1.7 2.2 1.6-1.2 1.7-.7 1.7-.1 1.7-.9 1.7-1.9 1.7-.5 1.7 .3 1.7 0 1.7-.5 1.7-1.9 1.7 .7 1.6 2.5 1.7 .5 1.7 1.7 1.7 .8 1.7-1.9 1.7-3.4 1.7 .7 1.7 1.6 1.7 3.8 1.7 2.6 1.7 3.5 1.6 1.4 1.7-1.5 1.7-2.5 1.7 .8 1.7-.9 1.7-1.8 1.7-.7 1.7 .7 1.7-3.3 1.7-5.9 1.7-4.8 1.6 0 1.7 2.4 1.7 6.4 1.7 3.8" stroke="#d62728" stroke-width="0.5" fill="none" stroke-opacity="0.4" stroke-linejoin="round"/>
<path d="M31.6 474.7l1.7 5 1.7 4.9 1.7 2.4 1.7 5.2 1.7 2.3 1.6 .6 1.7-.5 1.7-.8 1.7-1.4 1.7-2.9 1.7-4.3 1.7 .8 1.7 2.3 1.7-.7 1.7 0 1.7 3.1 1.6-1.2 1.7-.1 1.7 1.4 1.7-3.4 1.7-5.5 1.7-5.1 1.7-5.6 1.7-5.8 1.7-3.1 1.7-2.1 1.7 2.3 1.7 3.1 1.6 4 1.7 4.6 1.7 2.4 1.7-.3 1.7 3.7 1.7-.5 1.7-.2 1.7 3.3 1.7 3.6 1.7 2 1.7 5.9 1.6 7.8 1.7 6.9 1.7 5.4 1.7 2.7 1.7 0 1.7-2.6 1.7-4.5 1.7-3.5 1.7 .4 1.7 2.3 1.7 2.4 1.6 3.2 1.7-.4 1.7-.7 1.7 2.9 1.7-5.6 1.7-5.9 1.7-2 1.7-3.5 1.7-5.2 1.7-5.2 1.7-3.6 1.6-5.5 1.7-4.2 1.7-7.6 1.7-1.9" stroke="#9467bd" stroke-width="0.5" fill="none" stroke-opacity="0.4" stroke-linejoin="round"/>
<path d="M31.6 474.2l1.7 .1 1.7 .2 1.7 .6 1.7 2.1 1.7 2.9 1.6 2.3 1.7 2.6 1.7 1.6 1.7-.5 1.7 .7 1.7 1.2 1.7 .2 1.7-.6 1.7-.7 1.7 0 1.7-.2 1.6-1.2 1.7-2.4 1.7-.1 1.7-1 1.7 .2 1.7 .4 1.7 1.2 1.7 1.7 1.7 0 1.7-.3 1.7-.6 1.7 .3 1.6 .8 1.7 .8 1.7 .7 1.7 .3 1.7 .2 1.7-.2 1.7-2 1.7-2.3 1.7-2.3 1.7-.7 1.7 .1 1.6 1.2 1.7 2.9 1.7 3.3 1.7 2.5 1.7 3.8 1.7 1 1.7-1.5 1.7-3.7 1.7-3.6 1.7-2.7 1.7-3.2 1.6-1.4 1.7-.3 1.7 .1 1.7 2.3 1.7 4.6 1.7 3.4 1.7 .5 1.7 .3 1.7-.2 1.7-.5 1.7 .7 1.6 1 1.7 1.4 1.7 .7 1.7-.3" stroke="#2ca02c" stroke-width="0.5" fill="none" stroke-opacity="0.4" stroke-linejoin="round"/>
<path d="M31.6 503.9l1.7-.6 1.7-.3 1.7-2.6 1.7-1.4 1.7-2.3 1.6 .3 1.7-1 1.7 1.7 1.7 1 1.7 .3 1.7 1.6 1.7-.9 1.7-2 1.7-2.6 1.7-2.6 1.7-1.7 1.6 .5 1.7 .5 1.7 .8 1.7-.1 1.7 0 1.7-1.7 1.7 1 1.7 .5 1.7 1.4 1.7 0 1.7-1.3 1.7-.1 1.6 .7 1.7-1.3 1.7 1 1.7 1.3 1.7 2.1 1.7 0 1.7 3.2 1.7 1.3 1.7 1.1 1.7 .3 1.7 1 1.6 1 1.7 1.2 1.7-.2 1.7 1.1 1.7-1.2 1.7 0 1.7 0 1.7 1.1 1.7-1.1 1.7 .5 1.7 1.1 1.6-.8 1.7 .2 1.7-.8 1.7-.5 1.7-.7 1.7 .2 1.7-1.5 1.7-2.3 1.7-.7 1.7-.4 1.7 2.3 1.6 1.1 1.7 .9 1.7 1.6 1.7 .7" stroke="#9467bd" stroke-width="0.5" fill="none" stroke-opacity="0.4" stroke-linejoin="round"/>
<path d="M31.6 474.8l1.7 0 1.7 .8 1.7 2.1 1.7-.1 1.7 .7 1.6-.9 1.7 1.6 1.7 .2 1.7 2.8 1.7-1.9 1.7-.6 1.7 1.6 1.7 .6 1.7 .8 1.7-.8 1.7 0 1.6-2.8 1.7-3 1.7-.6 1.7 1.6 1.7 .5 1.7 2.4 1.7 3.3 1.7 3.1 1.7-.1 1.7 2.9 1.7 1.9 1.7 4.8 1.6-1.7 1.7-1.7 1.7-5.3 1.7-5.4 1.7-3.8 1.7 1.6 1.7 .1 1.7 3.1 1.7 3.4 1.7 .9 1.7-.1 1.6-1.6 1.7-.9 1.7-.4 1.7 2.3 1.7 1 1.7 1 1.7-3.5 1.7-3 1.7-1.1 1.7 0 1.7-2.2 1.6 .6 1.7 .6 1.7 1.7 1.7-1.1 1.7 0 1.7-.2 1.7 .8 1.7-3.1 1.7-1.2 1.7-.9 1.7 .8 1.6-.9 1.7-.5 1.7-1 1.7 0" stroke="#d62728" stroke-width="0.5" fill="none" stroke-opacity="0.4" stroke-linejoin="round"/>
<path d="M31.6 466.5l1.7 2.5 1.7 3.7 1.7 3.2 1.7 2.8 1.7 1.9 1.6 .9 1.7-1.1 1.7-.5 1.7-2.7 1.7 .4 1.7 1.1 1.7-.4 1.7-2.4 1.7-1 1.7-1.2 1.7 .1 1.6-2.6 1.7 .1 1.7-.2 1.7 3.1 1.7 .3 1.7 2.9 1.7-.2 1.7 .4 1.7-.2 1.7-.3 1.7-.7 1.7-.8 1.6-2.4 1.7-1.7 1.7-2.1 1.7-1.8 1.7 .4 1.7 3.2 1.7 3.5 1.7 3.8 1.7 2.5 1.7 .1 1.7-.1 1.6-.3 1.7 .7 1.7 2.7 1.7 3.9 1.7 1.9 1.7-.2 1.7-1.5 1.7-2 1.7-3 1.7-4.4 1.7-3.1 1.6 .8 1.7 1 1.7 2.3 1.7 .9 1.7 1.1 1.7 .1 1.7 2.6 1.7 .9 1.7 .6 1.7-2.2 1.7-1.4 1.6-3.7 1.7-4.3 1.7-4.5 1.7-1.3" stroke="#ff7f0e" stroke-width="0.5" fill="none" stroke-opacity="0.4" stroke-linejoin="round"/>
<path d="M31.6 493.5l1.7-1.6 1.7-.6 1.7-.2 1.7 .5 1.7 2 1.6-.4 1.7-1.6 1.7-1 1.7-3.2 1.7-4.9 1.7-4.4 1.7-.1 1.7 1.4 1.7 5 1.7 5.1 1.7 6.9 1.6 2.9 1.7-1.4 1.7-1.1 1.7-.7 1.7-3.3 1.7-.7 1.7 1.9 1.7 1.3 1.7 .6 1.7 1 1.7-.6 1.7-.9 1.6-3.2 1.7 .2 1.7-1.7 1.7-1.4 1.7-2 1.7 1.8 1.7 .7 1.7 2.7 1.7 1.2 1.7 1.4 1.7-1.3 1.6-.4 1.7-3 1.7-2.3 1.7-2.7 1.7-1.2 1.7 .2 1.7 1.4 1.7 2.6 1.7 1.5 1.7 .4 1.7 1.5 1.6-2.5 1.7-1.4 1.7 2.4 1.7 .4 1.7-.5 1.7-.4 1.7 .6 1.7-.3 1.7 .1 1.7 3 1.7 4.5 1.6 5.5 1.7 1.8 1.7 2.5 1.7 2.1" stroke="#1f77b4" stroke-width="0.5" fill="none" stroke-opacity="0.4" stroke-linejoin="round"/>
<path d="M31.6 456.1l1.7 3.1 1.7 3.3 1.7 3.4 1.7-.1 1.7 1.3 1.6 1.5 1.7 2.7 1.7 1.2 1.7 1.8 1.7 .6 1.7 1.6 1.7 0 1.7-1.4 1.7-.1 1.7-.4 1.7-2.6 1.6 1 1.7 1.2 1.7 1.5 1.7 2 1.7 .7 1.7-1.7 1.7-1.2 1.7-.8 1.7-.5 1.7 .6 1.7-2.2 1.7 .4 1.6 .1 1.7-1.2 1.7 .3 1.7 1.3 1.7 .6 1.7-.7 1.7 0 1.7-.3 1.7-.4 1.7 .7 1.7-.2 1.6 .1 1.7-.5 1.7-.8 1.7-.4 1.7-.2 1.7 1.4 1.7 2.1 1.7 .8 1.7 2.3 1.7-1.4 1.7 1.1 1.6-1.2 1.7 3.6 1.7 4.6 1.7 2.7 1.7-1.5 1.7-1.2 1.7-2.4 1.7-1.7 1.7-1.6 1.7 2.1 1.7 1.6 1.6 3.9 1.7 2.1 1.7 2.2 1.7 .4" stroke="#2ca02c" stroke-width="0.5" fill="none" stroke-opacity="0.4" stroke-linejoin="round"/>
<path d="M31.6 469.2l1.7 1.8 1.7 1.5 1.7 1.4 1.7 2.4 1.7 1.5 1.6 .1 1.7 .2 1.7 .6 1.7 .5 1.7-.5 1.7 .9 1.7 0 1.7 .2 1.7-1.7 1.7 2 1.7 2 1.6 1.3 1.7 2.5 1.7 1.8 1.7 0 1.7-.8 1.7-2.1 1.7-.9 1.7-1.1 1.7 2.1 1.7 .8 1.7 1 1.7-3.6 1.6-2.6 1.7-2.6 1.7-2.2 1.7-1.2 1.7 .5 1.7 1.6 1.7 2.9 1.7 .2 1.7 .5 1.7-.8 1.7-.6 1.6 .2 1.7-.3 1.7 .7 1.7-.9 1.7-.5 1.7-2.1 1.7-.5 1.7-2.6 1.7 1.2 1.7 1.2 1.7 .4 1.6 .1 1.7 2.7 1.7-.3 1.7 .2 1.7-2.3 1.7-.8 1.7-.4 1.7-1.7 1.7-.3 1.7 1.1 1.7-.5 1.6 .5 1.7 2.3 1.7 1.8 1.7 .8" stroke="#9467bd" stroke-width="0.5" fill="none" stroke-opacity="0.4" stroke-linejoin="round"/>
<path d="M31.6 490.1l1.7-3.9 1.7-4 1.7-2.6 1.7-.6 1.7-.9 1.6 .7 1.7 .3 1.7 2.2 1.7 .8 1.7 3.3 1.7 3.2 1.7 2.1 1.7 .4 1.7 .1 1.7-1.3 1.7-1.5 1.6-1 1.7 .2 1.7 2.1 1.7 .7 1.7 1.7 1.7 .6 1.7-.7 1.7-3 1.7-3 1.7-2.2 1.7-.7 1.7-.7 1.6-1 1.7-2.9 1.7-1 1.7-.7 1.7 3.4 1.7 2.5 1.7 2.1 1.7 1.6 1.7 1.3 1.7-1 1.7-.2 1.6 .2 1.7 2.8 1.7 1.8 1.7-.6 1.7-2.8 1.7-3.5 1.7-.2 1.7 .4 1.7 2.3 1.7-1.2 1.7-1.3 1.6-.2 1.7-1.7 1.7-.6 1.7-1.5 1.7 1.2 1.7 .3 1.7 2.5 1.7 .8 1.7-.3 1.7 .7 1.7 .8 1.6 1.7 1.7-.3 1.7-1.3 1.7-1.4" stroke="#2ca02c" stroke-width="0.5" fill="none" stroke-opacity="0.4" stroke-linejoin="round"/>
<path d="M31.6 497.3l1.7 .9 1.7 2.2 1.7-2.3 1.7-2 1.7-5.8 1.6-4.9 1.7-6.4 1.7-1.8 1.7-4.9 1.7-1 1.7 1.5 1.7 8.7 1.7 7.2 1.7 3.5 1.7 1.6 1.7 .4 1.6-3.2 1.7-2.8 1.7-.6 1.7 .8 1.7 .3 1.7-1.5 1.7 .1 1.7 .3 1.7 1.1 1.7 .9 1.7 .6 1.7-.6 1.6 0 1.7-.9 1.7-2.1 1.7 .2 1.7-1.5 1.7-1.2 1.7 .4 1.7 .7 1.7-1.2 1.7 .3 1.7-.2 1.6 .2 1.7-1 1.7 2.2 1.7 4.5 1.7 4.1 1.7 2.4 1.7 .4 1.7-.3 1.7-3.9 1.7-1.5 1.7 1 1.6 .7 1.7 3 1.7 1.3 1.7 1.1 1.7-2.2 1.7-1.7 1.7-4 1.7-3.6 1.7-4.3 1.7-4.4 1.7-1.9 1.6 .3 1.7 .1 1.7-.6 1.7-.9" stroke="#17becf" stroke-width="0.5" fill="none" stroke-opacity="0.4" stroke-linejoin="round"/>
<path d="M31.6 475.4l1.7 1.1 1.7 .9 1.7 1.7 1.7 2.5 1.7 1.3 1.6-1.2 1.7-.7 1.7-.2 1.7 1.8 1.7 2.5 1.7-.4 1.7-.9 1.7 .3 1.7-1.9 1.7-2 1.7-1.3 1.6-1.2 1.7-.6 1.7 1.2 1.7 .3 1.7 1.1 1.7 .6 1.7 .4 1.7 1.1 1.7 1.2 1.7-.4 1.7-1.2 1.7 0 1.6-2.2 1.7-1.5 1.7-1.2 1.7-.2 1.7-1.2 1.7 1.3 1.7 1.1 1.7 .7 1.7 1.2 1.7 .7 1.7 .9 1.6 1.2 1.7-1.5 1.7 .8 1.7 .5 1.7 .5 1.7-1.1 1.7-.1 1.7-2.4 1.7-1.2 1.7 .8 1.7 1.8 1.6 3.1 1.7 2.7 1.7 .3 1.7 .2 1.7-1.7 1.7-.2 1.7 0 1.7 .3 1.7-.7 1.7-.6 1.7-1 1.6-2 1.7-.5 1.7-.6 1.7-.9" stroke="#e377c2" stroke-width="0.5" fill="none" stroke-opacity="0.4" stroke-linejoin="round"/>
<path d="M31.6 488.2l1.7-1.7 1.7-3.7 1.7-1.8 1.7-2.9 1.7-1.2 1.6 .2 1.7 1.5 1.7 2.3 1.7 5.4 1.7 5.9 1.7 4.5 1.7 2.2 1.7-.2 1.7-2.3 1.7-2.1 1.7-2.6 1.6-.7 1.7-.5 1.7-1.6 1.7-2.8 1.7-.8 1.7-1.2 1.7 0 1.7 .4 1.7 1.3 1.7 1.8 1.7-1.6 1.7-3.1 1.6-2.8 1.7 1.4 1.7 4 1.7 2.5 1.7 .8 1.7-.8 1.7-1.1 1.7-1.6 1.7 .9 1.7 2.9 1.7 1.3 1.6 .8 1.7 1.7 1.7 1.6 1.7 1.4 1.7-1.6 1.7 .6 1.7 .7 1.7 .9 1.7-.2 1.7-1.1 1.7-2.8 1.6-3.1 1.7-2.3 1.7-2.9 1.7-.8 1.7-1.7 1.7-.1 1.7-.7 1.7 .5 1.7-.4 1.7 1.7 1.7 .8 1.6 3.5 1.7 1.2 1.7 .9 1.7-.3" stroke="#8c564b" stroke-width="0.5" fill="none" stroke-opacity="0.4" stroke-linejoin="round"/>
<path d="M31.6 494.9l1.7-.7 1.7 .9 1.7-1.4 1.7 1 1.7 1.1 1.6 1.3 1.7 .1 1.7 .7 1.7 2 1.7 3.3 1.7 1.5 1.7-.2 1.7-.7 1.7-1.4 1.7-6.2 1.7-4.3 1.6-5.8 1.7-5.6 1.7-8.2 1.7-3.4 1.7 .3 1.7 .3 1.7 4.1 1.7 7.2 1.7 4.4 1.7 3.7 1.7 3.9 1.7 .5 1.6-1.3 1.7-6.9 1.7-10.4 1.7-5.8 1.7-4.6 1.7-1.9 1.7 3.4 1.7 6.4 1.7 8.3 1.7 6.1 1.7 .7 1.6-3.1 1.7-1.4 1.7 .2 1.7-1 1.7-.5 1.7-2.5 1.7 3.2 1.7-.4 1.7 5 1.7 3.4 1.7 5 1.6 2.4 1.7 0 1.7-.7 1.7-3.4 1.7-5.2 1.7-5 1.7-2.6 1.7 4.8 1.7 4.1 1.7 3 1.7 .9 1.6 .7 1.7-6.2 1.7-2.8 1.7 .3" stroke="#8c564b" stroke-width="0.5" fill="none" stroke-opacity="0.4" stroke-linejoin="round"/>
<path d="M31.6 474.9l1.7 1.4 1.7 3.2 1.7 1.1 1.7 2.4 1.7 .5 1.6-.5 1.7-1.5 1.7-1.3 1.7-.1 1.7-1.7 1.7-.9 1.7 1.9 1.7 1.8 1.7-1.1 1.7-.2 1.7-.5 1.6 .5 1.7-1.2 1.7 2.7 1.7-.2 1.7-1.4 1.7-2.3 1.7 1.7 1.7 1.5 1.7 2 1.7 2.9 1.7 .2 1.7-1.1 1.6-.8 1.7-1.5 1.7-.2 1.7-1.4 1.7-2.1 1.7-1.2 1.7 1.2 1.7 .2 1.7 2 1.7 .9 1.7 2.5 1.6 3.9 1.7 1.4 1.7 .6 1.7 1.2 1.7-1 1.7 0 1.7-.2 1.7 1 1.7-1.9 1.7 1.3 1.7-.8 1.6 .6 1.7-2.2 1.7-1.9 1.7-2.7 1.7-2.1 1.7-.6 1.7 1 1.7 .3 1.7 2.2 1.7 1.2 1.7 .8 1.6-.5 1.7 1.5 1.7 1.9 1.7 2" stroke="#bcbd22" stroke-width="0.5" fill="none" stroke-opacity="0.4" stroke-linejoin="round"/>
<path d="M31.6 476.7l1.7 2.5 1.7 2 1.7 1.5 1.7 .5 1.7 .3 1.6-1.5 1.7-1.7 1.7-1.5 1.7-.9 1.7-.4 1.7 2.1 1.7 .6 1.7 1.7 1.7 3 1.7 2.6 1.7 1.9 1.6 2.5 1.7 2.6 1.7-.7 1.7 1 1.7-1.2 1.7-.6 1.7-3.6 1.7-3.1 1.7-.2 1.7 2.2 1.7-.7 1.7 1.9 1.6 .1 1.7-.2 1.7-2 1.7 1.4 1.7 .6 1.7 1 1.7 .8 1.7-.5 1.7-.6 1.7-3.9 1.7-.8 1.6-1.2 1.7-.9 1.7 .3 1.7 1 1.7 2.8 1.7 .1 1.7-.3 1.7 2.4 1.7-1 1.7-.3 1.7-.8 1.6 1.5 1.7-2.1 1.7-2 1.7-.8 1.7 .1 1.7 1.3 1.7-1.3 1.7 3 1.7 .7 1.7-.4 1.7 0 1.6 .6 1.7 .4 1.7-.2 1.7-1.2" stroke="#1f77b4" stroke-width="0.5" fill="none" stroke-opacity="0.4" stroke-linejoin="round"/>
<path d="M31.6 476l1.7 2.4 1.7 3.8 1.7 .5 1.7-3.2 1.7-4.5 1.6-3 1.7-1.5 1.7 .2 1.7 3.1 1.7 4.5 1.7 6.1 1.7 2.8 1.7 1.6 1.7-.6 1.7-2 1.7-2.5 1.6-.4 1.7-.8 1.7-.8 1.7-3 1.7 1 1.7 1.9 1.7 2.4 1.7 2.1 1.7 2.4 1.7 1.6 1.7-1.1 1.7-2.7 1.6-2.3 1.7-1.3 1.7-.8 1.7-1 1.7 2.2 1.7 1.8 1.7 1.7 1.7-.5 1.7-1.9 1.7-2.6 1.7-.3 1.6-.4 1.7 2.6 1.7 0 1.7 1.3 1.7-3.9 1.7-2.4 1.7-1 1.7 .7 1.7 1.8 1.7 4.9 1.7 3.9 1.6 1.7 1.7 .7 1.7-1.2 1.7-1.4 1.7-3.1 1.7-3.5 1.7-1.1 1.7-.4 1.7-2 1.7 1 1.7 1.9 1.6 1.5 1.7 2 1.7 .6 1.7-.9" stroke="#1f77b4" stroke-width="0.5" fill="none" stroke-opacity="0.4" stroke-linejoin="round"/>
<path d="M31.6 475.8l1.7 .9 1.7 .5 1.7 .8 1.7 .6 1.7 1.4 1.6 .1 1.7 .3 1.7-1.5 1.7-1.4 1.7-.3 1.7-.2 1.7-.6 1.7 3.2 1.7 .7 1.7 2.6 1.7-2 1.6 .9 1.7-2.2 1.7-.3 1.7-.9 1.7 .1 1.7-1.3 1.7-3.2 1.7-.8 1.7 2.6 1.7 1.8 1.7 1.3 1.7-.6 1.6-.3 1.7-2.1 1.7-.3 1.7 .9 1.7-.2 1.7 .5 1.7-1.8 1.7-.3 1.7 1 1.7 .3 1.7 .7 1.6 1.2 1.7 2.2 1.7 1.3 1.7 1.8 1.7 1.3 1.7 1.7 1.7 .8 1.7 .6 1.7-.5 1.7-2.4 1.7-2.2 1.6-.1 1.7-.7 1.7 2.2 1.7-1.3 1.7-1.3 1.7-.4 1.7-1.4 1.7 2.2 1.7 .4 1.7 2.4 1.7 .6 1.6 .7 1.7-1.8 1.7-2.1 1.7-1.8" stroke="#1f77b4" stroke-width="0.5" fill="none" stroke-opacity="0.4" stroke-linejoin="round"/>
<path d="M31.6 494l1.7-2.3 1.7-2.6 1.7-2.1 1.7-1.1 1.7 0 1.6-1 1.7-.8 1.7-.8 1.7-.3 1.7-.2 1.7 .6 1.7 3.7 1.7 .6 1.7 1.1 1.7 .4 1.7-1.6 1.6-2.8 1.7-1 1.7-.1 1.7 0 1.7 1 1.7 1.4 1.7 .7 1.7-.9 1.7-.6 1.7 .5 1.7 2.6 1.7 1.4 1.6 1 1.7 1.2 1.7-1.2 1.7-1.9 1.7-.5 1.7-.7 1.7-2 1.7-.5 1.7 .1 1.7-1 1.7 1.2 1.6 2.6 1.7 1.9 1.7 2.2 1.7-1.6 1.7 .3 1.7-1.3 1.7-1.9 1.7-1.5 1.7 1.8 1.7-1.1 1.7-.6 1.6 1.3 1.7 1.8 1.7-.6 1.7 .4 1.7-.3 1.7 0 1.7-2.9 1.7-.1 1.7 1 1.7 1.5 1.7 1 1.6 .9 1.7 .5 1.7-1 1.7-.4" stroke="#ff7f0e" stroke-width="0.5" fill="none" stroke-opacity="0.4" stroke-linejoin="round"/>
<path d="M31.6 468.8l1.7 2.3 1.7 3.4 1.7 2.4 1.7 3.1 1.7 2.1 1.6 1.4 1.7 .6 1.7 .4 1.7-.6 1.7-4.3 1.7-.4 1.7-1.4 1.7 2.7 1.7-1.7 1.7 1.6 1.7 .1 1.6 2.2 1.7-3.3 1.7-2.1 1.7-3.3 1.7-1.1 1.7 .1 1.7 1.7 1.7-2.2 1.7 1.4 1.7 .4 1.7 .9 1.7-.9 1.6 1.5 1.7 2 1.7 3.6 1.7-.9 1.7 .8 1.7-.3 1.7-.5 1.7 .1 1.7 4.4 1.7 1.1 1.7 1.8 1.6 .9 1.7-2.9 1.7-2.4 1.7-3.1 1.7-1.4 1.7-.3 1.7-.3 1.7-1.8 1.7 .3 1.7-2.7 1.7-1.5 1.6 .8 1.7 1.1 1.7 2.4 1.7 2 1.7 1.6 1.7 .7 1.7 2.6 1.7-.4 1.7 3.7 1.7 .5 1.7-2.4 1.6-4.3 1.7-2.9 1.7-3.9 1.7-3" stroke="#7f7f7f" stroke-width="0.5" fill="none" stroke-opacity="0.4" stroke-linejoin="round"/>
<path d="M31.6 469.7l1.7-1.8 1.7-2.6 1.7 1.4 1.7 3.6 1.7 3.5 1.6 1 1.7-1.5 1.7 1 1.7 .3 1.7 .7 1.7 3.3 1.7 2.7 1.7-.4 1.7-1.2 1.7-1.9 1.7-4.1 1.6-.9 1.7 .3 1.7-.4 1.7 3 1.7 .7 1.7 2.4 1.7 .8 1.7-.4 1.7-.7 1.7-.3 1.7-1.1 1.7 .5 1.6 .3 1.7 3 1.7 2.7 1.7 4.1 1.7 2.6 1.7 .7 1.7-1 1.7 .8 1.7-.3 1.7 1.1 1.7 3.2 1.6 2.5 1.7 0 1.7-3 1.7-4.2 1.7-1.2 1.7-.7 1.7-.4 1.7 .9 1.7-1.3 1.7-3.6 1.7-.9 1.6-1.3 1.7 2.7 1.7 3.7 1.7 4.1 1.7 3.2 1.7 1.3 1.7-2.3 1.7-3 1.7-3 1.7-4.1 1.7-2.8 1.6-1.6 1.7-1.4 1.7-.3 1.7-1.8" stroke="#e377c2" stroke-width="0.5" fill="none" stroke-opacity="0.4" stroke-linejoin="round"/>
<path d="M31.6 482.9l1.7-.1 1.7 2.2 1.7-.6 1.7 2 1.7-1.7 1.6-3.1 1.7-4.4 1.7-2.2 1.7-2.7 1.7 2.3 1.7 1.4 1.7 1.9 1.7 .4 1.7 3 1.7 1.8 1.7 6 1.6 1.8 1.7 2.6 1.7-1.6 1.7-5.5 1.7-4.1 1.7 2.1 1.7 2.5 1.7 1.7 1.7 3.9 1.7 2.3 1.7-.2 1.7-6.3 1.6-4.9 1.7-3.3 1.7 .6 1.7 1.1 1.7 2.5 1.7 .9 1.7 1.5 1.7-.7 1.7-2.1 1.7-1.3 1.7-2.6 1.6-1.2 1.7-1.9 1.7 .5 1.7 .7 1.7 3.1 1.7 0 1.7 2.7 1.7 1.5 1.7 2.8 1.7 .3 1.7-1.2 1.6-.9 1.7-2.5 1.7-4.8 1.7-5.1 1.7-2 1.7 .9 1.7 3.8 1.7 3.9 1.7 4.4 1.7 3.2 1.7 1.6 1.6-1.5 1.7-2.1 1.7-4 1.7 .3" stroke="#8c564b" stroke-width="0.5" fill="none" stroke-opacity="0.4" stroke-linejoin="round"/>
<path d="M31.6 499.4l1.7 .5 1.7 .6 1.7-2.2 1.7-2.5 1.7-4.9 1.6-3.3 1.7-2.9 1.7-1.6 1.7-1.5 1.7-.2 1.7 3.6 1.7 1.3 1.7 1.8 1.7-1.3 1.7-.1 1.7-3 1.6-2.5 1.7-.7 1.7 1.8 1.7 1.4 1.7 .6 1.7 .4 1.7 3.7 1.7 1.1 1.7 2.6 1.7 1.4 1.7 .1 1.7-3.1 1.6-3.3 1.7-1.6 1.7-1 1.7 .5 1.7 2 1.7 1.4 1.7 3.4 1.7 1.5 1.7 .8 1.7-.9 1.7-1.2 1.6-2.3 1.7-.7 1.7-.1 1.7 2.5 1.7 2.6 1.7-.1 1.7-1.1 1.7-2 1.7-1.6 1.7-.6 1.7 1.2 1.6 .2 1.7-3.5 1.7-2.1 1.7-1.4 1.7 2.7 1.7 2.1 1.7 5.4 1.7 3.7 1.7 2.6 1.7 1.2 1.7 .6 1.6-1.2 1.7-.5 1.7-.9 1.7 .8" stroke="#2ca02c" stroke-width="0.5" fill="none" stroke-opacity="0.4" stroke-linejoin="round"/>
<path d="M31.6 477.2l1.7 1.3 1.7 .2 1.7-.7 1.7-1.5 1.7-2.4 1.6 1 1.7-2.7 1.7 1.1 1.7-2.2 1.7 .6 1.7-.8 1.7 2.3 1.7 1.9 1.7 .4 1.7 3.5 1.7 2.5 1.6 2.3 1.7 2 1.7-.6 1.7 .2 1.7-3.3 1.7-1.9 1.7-1.2 1.7-2 1.7-.9 1.7-1.5 1.7 1.2 1.7-1.4 1.6 1.3 1.7 1 1.7 .9 1.7 .1 1.7 2.5 1.7 1.7 1.7 .4 1.7 0 1.7-.5 1.7 0 1.7-.2 1.6-1.9 1.7-1.8 1.7-1.6 1.7-3 1.7-2.1 1.7 1.7 1.7 2.1 1.7 3.1 1.7 3.4 1.7-.6 1.7 .7 1.6-1.9 1.7-.2 1.7 .1 1.7 .5 1.7 .1 1.7 .9 1.7 1.1 1.7-2.1 1.7 .1 1.7-.4 1.7-.6 1.6-.1 1.7-.8 1.7-.1 1.7 .7" stroke="#7f7f7f" stroke-width="0.5" fill="none" stroke-opacity="0.4" stroke-linejoin="round"/>
<path d="M31.6 482.3l1.7-2.1 1.7-3.6 1.7 .7 1.7 0 1.7 2.5 1.6 1.5 1.7 1.3 1.7 .8 1.7-.2 1.7 .7 1.7 2.1 1.7 0 1.7-1.3 1.7-1 1.7 .6 1.7 0 1.6 1.4 1.7 .2 1.7-1.6 1.7-1.6 1.7-3 1.7 .5 1.7 3.8 1.7 1.3 1.7 1.3 1.7-.1 1.7-1.3 1.7-2 1.6-1.2 1.7 0 1.7-.2 1.7 .4 1.7-2 1.7 1.1 1.7-1.1 1.7-1.6 1.7 .4 1.7 3.7 1.7 3.3 1.6 3.1 1.7 0 1.7 .6 1.7-.7 1.7-.4 1.7-1.3 1.7 2 1.7 1.1 1.7 2 1.7-.4 1.7-1.9 1.6-4.9 1.7-4.3 1.7-3.1 1.7-.7 1.7 1.8 1.7 2.6 1.7 2.9 1.7 1.6 1.7-1.1 1.7-.3 1.7-1.2 1.6-.6 1.7-1.7 1.7-1.7 1.7-.4" stroke="#8c564b" stroke-width="0.5" fill="none" stroke-opacity="0.4" stroke-linejoin="round"/>
<path d="M31.6 477.7l1.7 1.5 1.7 2.6 1.7-.1 1.7 .4 1.7 .7 1.6 1 1.7 .2 1.7 .7 1.7-.3 1.7-.9 1.7-1.8 1.7-1.8 1.7 .3 1.7 .1 1.7-1.9 1.7 .5 1.6 3.4 1.7 1.2 1.7 3 1.7 4.5 1.7 1.1 1.7-.4 1.7-4.6 1.7-4.7 1.7-4.2 1.7-4.6 1.7-7.9 1.7-1.1 1.6 .5 1.7 1.9 1.7 2.5 1.7 8.2 1.7 5.9 1.7 4.1 1.7 .3 1.7 3.3 1.7 0 1.7-1.7 1.7-4.8 1.6-.5 1.7 .1 1.7 0 1.7-1 1.7 1.1 1.7-4 1.7-6.4 1.7-6.3 1.7-9.5 1.7-5.9 1.7-7.3 1.6-7.8 1.7-3.4 1.7-1.6 1.7-1.6 1.7 2.6 1.7 5.7 1.7 2.3 1.7 7.6 1.7 6.6 1.7 4.4 1.7-.1 1.6-1.8 1.7-9 1.7-9.8 1.7-9.3" stroke="#1f77b4" stroke-width="0.5" fill="none" stroke-opacity="0.4" stroke-linejoin="round"/>
<path d="M31.6 483.4l1.7 1.4 1.7 1.3 1.7 3.1 1.7 .3 1.7 .7 1.6-5.6 1.7-2.9 1.7-4.1 1.7 .6 1.7-.3 1.7 1.7 1.7 1.3 1.7 1.8 1.7 1.9 1.7 3.9 1.7 1.1 1.6-.8 1.7-2.7 1.7-1.6 1.7-3.4 1.7-2.2 1.7-4.7 1.7-1 1.7-3.6 1.7 .4 1.7 2.3 1.7 2.5 1.7 1 1.6 3.6 1.7 4.5 1.7 3.9 1.7 3.5 1.7-.6 1.7 .5 1.7-1.5 1.7-.8 1.7-.9 1.7-1.8 1.7-3.5 1.6-.2 1.7-.7 1.7 1.8 1.7 1 1.7 1.2 1.7 3 1.7 3.2 1.7 2 1.7-.1 1.7 .2 1.7 .9 1.6 2.1 1.7-.8 1.7 2.4 1.7 2.9 1.7 1.8 1.7-.1 1.7 0 1.7-2.5 1.7-.7 1.7-2.7 1.7-.9 1.6 .9 1.7 .2 1.7 1 1.7 .5" stroke="#8c564b" stroke-width="0.5" fill="none" stroke-opacity="0.4" stroke-linejoin="round"/>
<path d="M31.6 487.6l1.7-.7 1.7-4.8 1.7-.9 1.7-.9 1.7 1.3 1.6 .3 1.7 2.2 1.7 .2 1.7 1.4 1.7 3.4 1.7 .9 1.7 .4 1.7 .7 1.7-.8 1.7-.2 1.7 2.2 1.6-1.7 1.7 1.2 1.7-2.3 1.7 .1 1.7-1.5 1.7-.4 1.7-2 1.7 .2 1.7 .2 1.7-.9 1.7 1.1 1.7-.8 1.6-2.6 1.7 .3 1.7 .4 1.7 1.9 1.7-.1 1.7 .9 1.7-.5 1.7-.5 1.7 1 1.7 .3 1.7 1 1.6-.1 1.7 .1 1.7-.2 1.7-.6 1.7 .6 1.7 0 1.7 2.5 1.7 1 1.7 1.7 1.7-1.1 1.7-.5 1.6 .4 1.7 1.4 1.7-2.5 1.7-2.1 1.7-4.1 1.7-1.8 1.7-3.4 1.7-.5 1.7-.7 1.7 3.3 1.7 2 1.6 2.4 1.7 1.3 1.7 1.7 1.7 1.6" stroke="#d62728" stroke-width="0.5" fill="none" stroke-opacity="0.4" stroke-linejoin="round"/>
<path d="M31.6 466.3l1.7 3.4 1.7 4.2 1.7 5.2 1.7 5.2 1.7 4.4 1.6 2.6 1.7 .4 1.7-1 1.7 .3 1.7-2.3 1.7-.9 1.7-3.6 1.7-2.4 1.7 .3 1.7 1.7 1.7-.5 1.6-.5 1.7-.9 1.7-1.9 1.7-.7 1.7 .9 1.7 2.5 1.7 2.5 1.7 2.8 1.7 3.5 1.7 2.4 1.7 .6 1.7-1.6 1.6-.6 1.7-2 1.7-.8 1.7-3.3 1.7-3.5 1.7-1.3 1.7-.2 1.7-2.1 1.7-.8 1.7 1.1 1.7 3 1.6 .7 1.7 3.1 1.7 .4 1.7-1.6 1.7-6.5 1.7-2.5 1.7-3.8 1.7-1.2 1.7 .6 1.7 4 1.7 5 1.6 5.4 1.7 5.8 1.7 4.9 1.7 .2 1.7-3.5 1.7-5.2 1.7-4 1.7-2.6 1.7-.7 1.7 .2 1.7-.6 1.6 2.5 1.7 .6 1.7 2.9 1.7 1.4" stroke="#bcbd22" stroke-width="0.5" fill="none" stroke-opacity="0.4" stroke-linejoin="round"/>
<path d="M31.6 474.2l1.7 1.5 1.7 2.1 1.7 1.1 1.7 .4 1.7-1.3 1.6 1.3 1.7-.4 1.7 .6 1.7-.6 1.7 1.4 1.7-.1 1.7 .6 1.7 0 1.7-.3 1.7 .6 1.7 1 1.6-.2 1.7 1.1 1.7-1.6 1.7-.9 1.7 .4 1.7 .9 1.7 .7 1.7 .9 1.7-.2 1.7-.3 1.7-3 1.7-.8 1.6-.3 1.7 1.9 1.7 .1 1.7 .5 1.7-1.2 1.7-.6 1.7 .4 1.7 .2 1.7 1.4 1.7 .4 1.7 1.6 1.6 1.6 1.7 1.3 1.7 0 1.7 .8 1.7-1.7 1.7-1.6 1.7-.6 1.7-.1 1.7-.4 1.7 .6 1.7 1.3 1.6 2.1 1.7 .5 1.7 .3 1.7-1.2 1.7-.7 1.7 .7 1.7 .2 1.7 1.8 1.7 1.4 1.7 1.3 1.7-.2 1.6 0 1.7 1.3 1.7 3 1.7 2.6" stroke="#ff7f0e" stroke-width="0.5" fill="none" stroke-opacity="0.4" stroke-linejoin="round"/>
<path d="M31.6 479.3l1.7 1.7 1.7 2.1 1.7-1.6 1.7-.4 1.7-1.3 1.6 .6 1.7-.5 1.7 .5 1.7 .9 1.7 0 1.7 .8 1.7-.8 1.7 .5 1.7-1.1 1.7 .2 1.7 2.2 1.6-1 1.7-1.5 1.7-2.6 1.7-4.1 1.7-3.3 1.7 1.3 1.7 .5 1.7 1.2 1.7 1.7 1.7 1.4 1.7-.3 1.7 .2 1.6-1.2 1.7 2.2 1.7-.4 1.7 .1 1.7-1.6 1.7 1.6 1.7-2 1.7-1.2 1.7-.4 1.7 0 1.7 3.1 1.6 3.4 1.7 2.4 1.7 2.3 1.7 2.2 1.7-.4 1.7-1.5 1.7 .6 1.7-1.8 1.7-2.1 1.7 1.4 1.7-.8 1.6 .5 1.7-3.6 1.7-2 1.7-1.9 1.7 .4 1.7 .3 1.7 4.1 1.7 2.3 1.7 .5 1.7 1.6 1.7 .9 1.6-1 1.7-.7 1.7 .2 1.7 1.3" stroke="#17becf" stroke-width="0.5" fill="none" stroke-opacity="0.4" stroke-linejoin="round"/>
<path d="M31.6 485.8l1.7 .9 1.7 1 1.7 .5 1.7 2.3 1.7 .6 1.6 0 1.7-.3 1.7-2.2 1.7-2.6 1.7-.1 1.7 1.2 1.7 3.1 1.7 3.8 1.7 2.8 1.7 1.1 1.7-.5 1.6-2.8 1.7-1.4 1.7-2 1.7-1.4 1.7 1.4 1.7 2.7 1.7 2 1.7 1.8 1.7 .5 1.7 .2 1.7 0 1.7-.9 1.6-1.2 1.7-2.8 1.7-1.2 1.7-.2 1.7 1.4 1.7-.9 1.7 .8 1.7-.7 1.7 .4 1.7 1 1.7 0 1.6-1 1.7-.7 1.7-.1 1.7 1.2 1.7 .2 1.7 .3 1.7 1.4 1.7 2.9 1.7 0 1.7 1.3 1.7 .9 1.6 1.2 1.7 0 1.7 .9 1.7-.6 1.7-.7 1.7-1.5 1.7 .6 1.7-1.3 1.7-1.9 1.7-2.7 1.7-2.1 1.6-3.5 1.7-2.6 1.7-2.9 1.7-1.7" stroke="#17becf" stroke-width="0.5" fill="none" stroke-opacity="0.4" stroke-linejoin="round"/>
<path d="M31.6 470.9l1.7 1.3 1.7 2.1 1.7 2.5 1.7 2 1.7 .2 1.6-.4 1.7 .4 1.7-.1 1.7-1.4 1.7-2.1 1.7-1.6 1.7-1 1.7 .2 1.7 .9 1.7 .7 1.7 .2 1.6-1 1.7-.2 1.7 2 1.7 2 1.7 1.2 1.7 .6 1.7-.3 1.7-2 1.7 .2 1.7-.2 1.7-.3 1.7 .5 1.6-.4 1.7 2.3 1.7 1.1 1.7-.4 1.7-1 1.7 1.7 1.7-.2 1.7 .7 1.7 1.9 1.7-.6 1.7-.6 1.6 .2 1.7-1.4 1.7-.6 1.7-1.5 1.7-.1 1.7-1.7 1.7-.1 1.7-1.3 1.7 .3 1.7-.2 1.7 .6 1.6-.7 1.7 .9 1.7 1 1.7 .8 1.7 .8 1.7 .3 1.7-.5 1.7 .5 1.7-1.7 1.7-2.2 1.7-.8 1.6 .9 1.7 2.2 1.7 4.4 1.7 1.8" stroke="#bcbd22" stroke-width="0.5" fill="none" stroke-opacity="0.4" stroke-linejoin="round"/>
<path d="M31.6 477.8l1.7 2.2 1.7 4.9 1.7 3.6 1.7 .8 1.7 1.3 1.6-1 1.7-3.1 1.7-1.1 1.7-1.2 1.7-.6 1.7-.3 1.7 .4 1.7 1 1.7 4.6 1.7-.1 1.7 0 1.6 1.7 1.7 1.2 1.7 2.4 1.7 2.5 1.7 .1 1.7 .6 1.7-3.7 1.7-3.6 1.7-1.9 1.7-.1 1.7-.8 1.7-.6 1.6 1.6 1.7 .2 1.7 1.4 1.7-1.8 1.7 2 1.7 2.6 1.7 1.9 1.7-1.3 1.7-2.5 1.7-2.5 1.7-2 1.6 0 1.7 2.6 1.7 2.3 1.7 1.8 1.7-.3 1.7-.8 1.7-2.8 1.7-1.3 1.7 .4 1.7-.3 1.7 1.7 1.6 .4 1.7-.4 1.7 1.1 1.7-.8 1.7 0 1.7-.3 1.7-.4 1.7-1.6 1.7-.9 1.7-1.9 1.7-.6 1.6 1.2 1.7 .2 1.7-1.3 1.7-.3" stroke="#7f7f7f" stroke-width="0.5" fill="none" stroke-opacity="0.4" stroke-linejoin="round"/>
<path d="M31.6 471.7l1.7 2.3 1.7 2.5 1.7 1.1 1.7 .7 1.7-.1 1.6 .9 1.7 1.1 1.7 1.6 1.7 .9 1.7-.7 1.7 1.8 1.7-2.1 1.7 .3 1.7-1 1.7 1.2 1.7 .2 1.6-.2 1.7-.5 1.7-1.7 1.7 .6 1.7 .3 1.7 1.8 1.7-.3 1.7-.8 1.7 2.6 1.7 2.1 1.7 .6 1.7-1.5 1.6-1.4 1.7-1.7 1.7-3.2 1.7 .6 1.7 1.6 1.7 1.3 1.7-1.6 1.7-1.6 1.7-1.3 1.7-.4 1.7-.6 1.6 1.4 1.7 1.7 1.7 4.2 1.7 .5 1.7 .2 1.7-1 1.7-1.5 1.7-.3 1.7-2.1 1.7 1.4 1.7-.9 1.6 1.5 1.7 3.3 1.7 5.2 1.7 3.5 1.7-.6 1.7 .9 1.7 1.1 1.7 .5 1.7-.9 1.7-2.3 1.7-1.9 1.6-4.3 1.7-3 1.7-3.2 1.7-.7" stroke="#8c564b" stroke-width="0.5" fill="none" stroke-opacity="0.4" stroke-linejoin="round"/>
<path d="M31.6 502.4l1.7-1.4 1.7-2 1.7-1.8 1.7-3.8 1.7-5.4 1.6-9.2 1.7-8.7 1.7-8.1 1.7-2.3 1.7-.8 1.7 4.9 1.7 1.9 1.7 4.2 1.7 5.3 1.7 4 1.7 3.4 1.6-.4 1.7 1.2 1.7-1.3 1.7 1 1.7-.2 1.7 2.8 1.7-.6 1.7-4 1.7-7.1 1.7-5.7 1.7-4.5 1.7-2 1.6 .7 1.7 2.5 1.7 3 1.7 1.6 1.7-.7 1.7-1.9 1.7-3.3 1.7-2.4 1.7-.1 1.7 3.8 1.7 3.2 1.6 4.8 1.7 1.7 1.7 1.1 1.7-2.6 1.7 .4 1.7 .2 1.7 2 1.7 2.3 1.7 .7 1.7 1.3 1.7-1.2 1.6 .2 1.7-2 1.7-.7 1.7 .8 1.7 1.1 1.7-1 1.7-2.2 1.7-.4 1.7-.2 1.7 1.2 1.7 2.4 1.6 2.9 1.7 2.9 1.7-.2 1.7 .2" stroke="#e377c2" stroke-width="0.5" fill="none" stroke-opacity="0.4" stroke-linejoin="round"/>
<path d="M31.6 475.5l1.7 .8 1.7 .9 1.7 2.1 1.7-.1 1.7 1.4 1.6-1.5 1.7-1.2 1.7-3.2 1.7-4.1 1.7-3 1.7-1.3 1.7 1.1 1.7 2.3 1.7 4.5 1.7 3 1.7 .3 1.6 .8 1.7-.8 1.7-.5 1.7 .7 1.7 1.1 1.7 2.8 1.7 1.7 1.7 0 1.7 .5 1.7-1.1 1.7-1.3 1.7-1.2 1.6 1.5 1.7 1.8 1.7 3.2 1.7 1.5 1.7 .3 1.7 .1 1.7-2.3 1.7-.4 1.7-.7 1.7 0 1.7-1.9 1.6-.3 1.7 .6 1.7 1.7 1.7 2.1 1.7 .2 1.7 .3 1.7 .4 1.7-1.3 1.7-2.7 1.7-.6 1.7-.3 1.6-1.8 1.7 0 1.7 .8 1.7 1.1 1.7 1.4 1.7-.2 1.7 1 1.7-1.3 1.7-1 1.7-3.1 1.7-1 1.6-.7 1.7 .9 1.7 1.7 1.7 .3" stroke="#7f7f7f" stroke-width="0.5" fill="none" stroke-opacity="0.4" stroke-linejoin="round"/>
<path d="M31.6 477.6l1.7 .8 1.7-2.6 1.7-3.3 1.7 0 1.7-.2 1.6 2.9 1.7 1 1.7 2.7 1.7 1.4 1.7 1.2 1.7-2.5 1.7-2.4 1.7-3.5 1.7 .5 1.7 2.5 1.7 4.5 1.6 3.8 1.7 4.5 1.7-1.4 1.7 1.9 1.7 .1 1.7 .6 1.7 .8 1.7 2.2 1.7 1.3 1.7 .2 1.7-1 1.7-.2 1.6 2 1.7 2.3 1.7-1.8 1.7-3.2 1.7-2.9 1.7-8.6 1.7-11.2 1.7-12.6 1.7-11.1 1.7-10 1.7-2 1.6 3 1.7 10.7 1.7 16 1.7 16.2 1.7 12 1.7 5.8 1.7 2 1.7-6.6 1.7-10.2 1.7-15.4 1.7-16.5 1.6-12.5 1.7-7.3 1.7-3.7 1.7 1.7 1.7 1.8 1.7 8.1 1.7 8.7 1.7 9.7 1.7 2.7 1.7 6 1.7 .5 1.6 2.9 1.7-.6 1.7-1.5 1.7 .3" stroke="#2ca02c" stroke-width="0.5" fill="none" stroke-opacity="0.4" stroke-linejoin="round"/>
<path d="M31.6 487.9l1.7 .1 1.7 .7 1.7 1.9 1.7 .6 1.7 2 1.6 2 1.7 2.4 1.7 1.7 1.7 .4 1.7-1.8 1.7-1.4 1.7-1.8 1.7-.6 1.7 1.3 1.7-.1 1.7-1 1.6-1.6 1.7 .4 1.7-.1 1.7 1.3 1.7 1.7 1.7 1.5 1.7 .2 1.7-.9 1.7-2.5 1.7-3 1.7-.7 1.7-1 1.6-1 1.7 .7 1.7 1.5 1.7 3.4 1.7 .6 1.7 .2 1.7 .5 1.7 .5 1.7 .5 1.7 1.1 1.7 1.4 1.6-1.1 1.7 1.2 1.7-1.5 1.7 2.2 1.7-2 1.7-.2 1.7-.1 1.7-.8 1.7-.1 1.7 .1 1.7 .5 1.6-1.3 1.7 .7 1.7-.9 1.7-1 1.7-1.8 1.7-2.6 1.7 2.3 1.7 2.7 1.7 2.6 1.7 2.8 1.7 .3 1.6 .1 1.7-2 1.7-.2 1.7-.3" stroke="#d62728" stroke-width="0.5" fill="none" stroke-opacity="0.4" stroke-linejoin="round"/>
<path d="M31.6 497.6l1.7-3.3 1.7-4.7 1.7 1.2 1.7-.1 1.7 1.3 1.6 .5 1.7 2.1 1.7-.6 1.7 0 1.7-3.3 1.7-4.1 1.7-2.5 1.7-2 1.7-.8 1.7 2.9 1.7 3.5 1.6 2.3 1.7 1.9 1.7 .3 1.7 2.3 1.7-.1 1.7-1 1.7 .9 1.7 1.1 1.7-.3 1.7-.5 1.7 1.5 1.7 .5 1.6-2.5 1.7-2.1 1.7 1.8 1.7 .9 1.7-3.2 1.7-4.5 1.7-5.1 1.7-2.8 1.7 0 1.7 4 1.7 6.9 1.6 4.1 1.7-.3 1.7-1.4 1.7-4.5 1.7-4.7 1.7-3.1 1.7 2.4 1.7 .1 1.7 2.6 1.7-1.5 1.7 2.7 1.6-.7 1.7 2 1.7 2.4 1.7 3.8 1.7 2.9 1.7 1.4 1.7-.1 1.7 2 1.7-.1 1.7 1.2 1.7 .7 1.6 .6 1.7-1.7 1.7 1 1.7-.7" stroke="#d62728" stroke-width="0.5" fill="none" stroke-opacity="0.4" stroke-linejoin="round"/>
<path d="M31.6 495l1.7-1.2 1.7 .4 1.7-.8 1.7-.6 1.7 .5 1.6-.8 1.7-1.3 1.7-.5 1.7-.5 1.7 1 1.7 0 1.7 1.1 1.7-1.4 1.7 1.6 1.7 .1 1.7 1.7 1.6 .8 1.7-1.9 1.7-1.2 1.7-2.1 1.7-1.5 1.7 1.6 1.7 1.6 1.7 3 1.7 2.5 1.7 1 1.7 .8 1.7-1.3 1.6-.8 1.7 1.2 1.7 1.3 1.7 2.1 1.7 1.4 1.7 .6 1.7-.6 1.7-.1 1.7 .4 1.7-2.2 1.7-1 1.6-2.6 1.7 .7 1.7-.8 1.7-.3 1.7-.2 1.7 .2 1.7-.1 1.7-.3 1.7 .1 1.7 .4 1.7-.7 1.6 .3 1.7 1 1.7-.2 1.7-.4 1.7-.1 1.7 1 1.7 1.5 1.7 2.6 1.7-.2 1.7 .3 1.7 .2 1.6-.5 1.7 0 1.7 .6 1.7-.4" stroke="#9467bd" stroke-width="0.5" fill="none" stroke-opacity="0.4" stroke-linejoin="round"/>
<path d="M31.6 472.6l1.7-.6 1.7-1.2 1.7 .1 1.7 3.2 1.7 5 1.6 .9 1.7-.8 1.7 .7 1.7-.2 1.7-2.5 1.7 1.7 1.7 .1 1.7 1 1.7-.1 1.7-2.2 1.7-1.2 1.6-2.5 1.7-.2 1.7 .8 1.7 1.6 1.7-.8 1.7-2.1 1.7-.4 1.7-2.3 1.7-.4 1.7-1.5 1.7 .8 1.7 .9 1.6 .4 1.7 .8 1.7-.6 1.7 1.6 1.7-.6 1.7 0 1.7 1 1.7 1.5 1.7 2 1.7 .4 1.7 1.1 1.6-1.3 1.7-1.7 1.7-2.8 1.7 1.2 1.7 1.5 1.7 1.7 1.7 2.5 1.7 3 1.7 .4 1.7 .6 1.7-1 1.6-.5 1.7-2 1.7-1.3 1.7 1.1 1.7 .8 1.7 2.1 1.7-1 1.7-.8 1.7-3.3 1.7-1.3 1.7-.6 1.6 .3 1.7 1.5 1.7 1.1 1.7 .9" stroke="#17becf" stroke-width="0.5" fill="none" stroke-opacity="0.4" stroke-linejoin="round"/>
<path d="M31.6 481.9l1.7 1.6 1.7 3.4 1.7 2.3 1.7 5 1.7 3.1 1.6 1.3 1.7-4.7 1.7-4.6 1.7-4.2 1.7-3.8 1.7-.9 1.7 3.5 1.7 2.9 1.7 1.4 1.7-.2 1.7 .7 1.6-.9 1.7-.9 1.7-1 1.7-.1 1.7-1.4 1.7-3.8 1.7-1.3 1.7 1.3 1.7 3.4 1.7 2.6 1.7 2.4 1.7-1.1 1.6-4.2 1.7-4.1 1.7-3 1.7 .3 1.7-.3 1.7 3.3 1.7 .4 1.7 .6 1.7-.3 1.7 2.1 1.7 2 1.6-.1 1.7-1 1.7-.8 1.7 2.4 1.7-.5 1.7 1.5 1.7 0 1.7 .5 1.7 .7 1.7 2.8 1.7-2.2 1.6-.4 1.7-3.7 1.7-1.9 1.7-2.5 1.7 3.7 1.7 2 1.7 6.7 1.7 1 1.7-.3 1.7-4 1.7-5.1 1.6-5.2 1.7 1.6 1.7 4.2 1.7 3.6" stroke="#bcbd22" stroke-width="0.5" fill="none" stroke-opacity="0.4" stroke-linejoin="round"/>
<path d="M31.6 475.1l1.7 .3 1.7-2.1 1.7-2.1 1.7-1.4 1.7-.6 1.6 .6 1.7 3.1 1.7 3.1 1.7 2 1.7 .1 1.7-.5 1.7-1.2 1.7-1.4 1.7 .8 1.7 3.9 1.7 2.6 1.6 1 1.7-.7 1.7 .1 1.7-1.1 1.7 .8 1.7 1.5 1.7 4.4 1.7 2.6 1.7 2.3 1.7 2.3 1.7 1.2 1.7-2.3 1.6-2.4 1.7 .6 1.7 .3 1.7 1.3 1.7 2.1 1.7-.6 1.7 .4 1.7-2.5 1.7 .1 1.7 1.7 1.7-1.4 1.6-2.7 1.7-1.2 1.7-2.4 1.7-4 1.7 .5 1.7 1.2 1.7-.3 1.7-1.4 1.7-2.6 1.7 1.4 1.7 1.7 1.6-.5 1.7-1.3 1.7-1 1.7-3.2 1.7-5.9 1.7-.5 1.7 2.5 1.7 2.6 1.7 2.1 1.7 3.1 1.7 2.4 1.6 2.2 1.7 2.1 1.7 3.1 1.7 2" stroke="#e377c2" stroke-width="0.5" fill="none" stroke-opacity="0.4" stroke-linejoin="round"/>
<path d="M31.6 471.4l1.7 .8 1.7-.1 1.7 1.3 1.7 2.8 1.7 3.5 1.6 2.8 1.7 2.9 1.7 1.7 1.7 .9 1.7-2.7 1.7-3.3 1.7-1.9 1.7 .2 1.7-1.3 1.7 .1 1.7 2.6 1.6 2.8 1.7 2 1.7-1.9 1.7-1.5 1.7-2.5 1.7 1.5 1.7 3.6 1.7 2 1.7 2.4 1.7 .9 1.7 .9 1.7-1.2 1.6 1.1 1.7 .1 1.7 .5 1.7-1.9 1.7-3.8 1.7-.4 1.7-1.7 1.7-.3 1.7 1.2 1.7 1.1 1.7-1.4 1.6-1.9 1.7-2.4 1.7-2.6 1.7-2.1 1.7-.1 1.7-.7 1.7 .9 1.7 1.7 1.7 3.8 1.7 .8 1.7 1.5 1.6-1.7 1.7 2 1.7 .2 1.7 5.8 1.7 4.1 1.7 3.4 1.7-2.6 1.7-.4 1.7-2.5 1.7-3.7 1.7-2 1.6 1.9 1.7 2 1.7 3.3 1.7 1" stroke="#e377c2" stroke-width="0.5" fill="none" stroke-opacity="0.4" stroke-linejoin="round"/>
<path d="M31.6 475.1l1.7-1.4 1.7-2.8 1.7-1.2 1.7-.6 1.7 .9 1.6 .1 1.7 1.2 1.7-1.1 1.7 3 1.7 2.9 1.7 .3 1.7-1 1.7-1.7 1.7-1.3 1.7 1.6 1.7 1.6 1.6 .7 1.7 .7 1.7-.5 1.7-.6 1.7-.3 1.7-1 1.7-1.9 1.7-.8 1.7 0 1.7-.3 1.7 1.2 1.7 1.5 1.6 1.1 1.7 1.1 1.7 .2 1.7 .5 1.7 .3 1.7 .3 1.7 .6 1.7 .7 1.7-.9 1.7-1.8 1.7 1 1.6 .5 1.7-.2 1.7 1.6 1.7-.2 1.7 .5 1.7-.4 1.7 0 1.7 1.9 1.7 1.2 1.7 0 1.7 .5 1.6 .1 1.7-1.1 1.7 .1 1.7 1.6 1.7 .7 1.7 2.1 1.7 0 1.7 .3 1.7-.1 1.7-.5 1.7-1.8 1.6-2.6 1.7-2.5 1.7-4.8 1.7-4.2" stroke="#2ca02c" stroke-width="0.5" fill="none" stroke-opacity="0.4" stroke-linejoin="round"/>
<path d="M31.6 484.7l1.7-1.2 1.7-4.7 1.7-2.7 1.7 0 1.7 2.6 1.6 .4 1.7 .8 1.7 1 1.7 1 1.7 .1 1.7-.9 1.7-2 1.7-.9 1.7-.8 1.7-1 1.7 1.3 1.6 2.8 1.7 2.6 1.7 2.4 1.7 .8 1.7 .9 1.7-1.7 1.7-1.4 1.7-4.2 1.7-1.1 1.7 .5 1.7 .1 1.7 3.6 1.6 1.4 1.7 .1 1.7 .7 1.7 .7 1.7 1.2 1.7 .5 1.7 1.1 1.7-2.2 1.7-3 1.7-3.7 1.7-4.4 1.6 .5 1.7 .2 1.7 3.1 1.7 .9 1.7 2.2 1.7-1.5 1.7-1.6 1.7-2.7 1.7-.1 1.7 1.6 1.7 1.2 1.6 5.2 1.7 5.6 1.7 1.7 1.7-.2 1.7-.7 1.7 .4 1.7-.9 1.7 .2 1.7 .4 1.7 .5 1.7-2.1 1.6-1.8 1.7 2.1 1.7 .7 1.7 .7" stroke="#9467bd" stroke-width="0.5" fill="none" stroke-opacity="0.4" stroke-linejoin="round"/>
<path d="M31.6 495.7l1.7-2.9 1.7-3 1.7 1.6 1.7 1.9 1.7 4.4 1.6 1.8 1.7 1.8 1.7-4.2 1.7-4.3 1.7-4.8 1.7-3.2 1.7-4.7 1.7-1.9 1.7-1.8 1.7 2 1.7 .4 1.6 1.9 1.7 .3 1.7 0 1.7-2.2 1.7-.5 1.7-.4 1.7 .4 1.7 1.1 1.7 1.7 1.7-.6 1.7-.8 1.7-5.3 1.6-3 1.7 1.1 1.7 2.7 1.7 3.8 1.7 2.6 1.7 4 1.7 1.3 1.7 1.8 1.7-1.8 1.7 .1 1.7-.3 1.6-.7 1.7-.1 1.7 3.3 1.7 .7 1.7-2 1.7-5.3 1.7-3.6 1.7-6.1 1.7 .5 1.7 .3 1.7 5.9 1.6 1.3 1.7 4.2 1.7-2.5 1.7 1.1 1.7-4.3 1.7 2.4 1.7 2.9 1.7 3.8 1.7-1.2 1.7-1.2 1.7-6 1.6-5.2 1.7-6.6 1.7-5.5 1.7-4.3" stroke="#9467bd" stroke-width="0.5" fill="none" stroke-opacity="0.4" stroke-linejoin="round"/>
<path d="M31.6 486.1l1.7-2 1.7-.9 1.7-2.3 1.7-1.8 1.7-1.6 1.6-.9 1.7-1.3 1.7 1 1.7 .2 1.7 1.3 1.7 1.3 1.7 .7 1.7-.6 1.7 .9 1.7 .6 1.7 .8 1.6-1.2 1.7-1.9 1.7-2.1 1.7-.5 1.7-.7 1.7 .7 1.7 1.8 1.7-1 1.7 .7 1.7-.5 1.7 1.2 1.7 2.8 1.6 .4 1.7 1 1.7-2.1 1.7-1.3 1.7-2.7 1.7 .5 1.7 .1 1.7 .8 1.7 1.3 1.7-.7 1.7-1.3 1.6-1.7 1.7-2.3 1.7 2 1.7-1.5 1.7 1.6 1.7 .7 1.7 4.4 1.7 1.4 1.7 5 1.7 .4 1.7 .7 1.6 .3 1.7 1.7 1.7-1 1.7 1.7 1.7-2.5 1.7 .9 1.7-2.3 1.7-2.4 1.7-2.6 1.7 .4 1.7 .4 1.6 3.6 1.7 3.5 1.7 5 1.7 3.2" stroke="#2ca02c" stroke-width="0.5" fill="none" stroke-opacity="0.4" stroke-linejoin="round"/>
<path d="M31.6 477.5l1.7 .9 1.7-.2 1.7 1.5 1.7 1.6 1.7 2.9 1.6-1.8 1.7-3.5 1.7-4 1.7 1.5 1.7 .9 1.7 6 1.7 8.7 1.7 8.9 1.7 3.4 1.7 1.4 1.7-3.8 1.6-1.2 1.7-4.4 1.7-3.8 1.7-5.3 1.7-4.6 1.7-4.1 1.7-1 1.7-2.5 1.7 1 1.7 4.1 1.7 3.2 1.7 .6 1.6 .4 1.7-.4 1.7-.2 1.7-.4 1.7 2.6 1.7 3 1.7 6.3 1.7 2.8 1.7 4.2 1.7 .4 1.7 1.1 1.6 .4 1.7-.4 1.7-4.1 1.7-1.6 1.7-2.4 1.7 1.4 1.7 1.5 1.7 6.9 1.7 5.5 1.7 8.8 1.7 2.1 1.6 .6 1.7-7.4 1.7-8.5 1.7-12.3 1.7-5.5 1.7-7 1.7-1.5 1.7-3.4 1.7-3.2 1.7-2.2 1.7-2.2 1.6-7.8 1.7-4.8 1.7 .2 1.7-2.4" stroke="#8c564b" stroke-width="0.5" fill="none" stroke-opacity="0.4" stroke-linejoin="round"/>
<path d="M31.6 484.1l1.7-2.9 1.7-2.4 1.7-1.8 1.7 3.7 1.7 2.1 1.6 3.2 1.7 1.9 1.7 .5 1.7 .8 1.7-1.6 1.7-.8 1.7-3.2 1.7-2.9 1.7-3.7 1.7-.6 1.7-2.3 1.6-1.7 1.7 .6 1.7 6.6 1.7 3.7 1.7 3.1 1.7-.7 1.7-.3 1.7-3.1 1.7-1.5 1.7 1.3 1.7 2 1.7-.1 1.6 .2 1.7 .4 1.7-1.8 1.7-.8 1.7-.7 1.7 1.7 1.7 2.5 1.7 4.8 1.7 3.1 1.7 3.3 1.7-2.7 1.6-3.6 1.7-4.6 1.7-4.4 1.7-1 1.7 .9 1.7 2.7 1.7 4.7 1.7 5.2 1.7 2.4 1.7 .7 1.7-1.6 1.6-2.2 1.7-1.8 1.7-1 1.7-1.6 1.7-1.7 1.7-3 1.7-2.8 1.7 .2 1.7 4.1 1.7 5.9 1.7 2.8 1.6 4.9 1.7 4.7 1.7 3.2 1.7 1.7" stroke="#17becf" stroke-width="0.5" fill="none" stroke-opacity="0.4" stroke-linejoin="round"/>
<path d="M31.6 471.6l1.7 5.7 1.7 6.2 1.7-.3 1.7-.2 1.7-5.9 1.6-3.4 1.7-6.3 1.7-.8 1.7-1.4 1.7 2.4 1.7-.7 1.7 4.3 1.7 1.9 1.7 3.4 1.7 .7 1.7 .2 1.6-3.6 1.7-.3 1.7-.1 1.7 4 1.7 4.6 1.7 .6 1.7 2.4 1.7 2.7 1.7 3.3 1.7 .7 1.7-.4 1.7-4.8 1.6-2.3 1.7-6 1.7-3.1 1.7-3.3 1.7 .7 1.7-3 1.7 4 1.7 3.9 1.7 1.7 1.7-1.5 1.7-2.6 1.6-.9 1.7 1.1 1.7 2.3 1.7 2.8 1.7 2 1.7-.4 1.7 .8 1.7 1.5 1.7 2.1 1.7 1 1.7 2 1.6-.1 1.7 .5 1.7-1.9 1.7-6 1.7-7 1.7-5.6 1.7-2.4 1.7 3.3 1.7 6.8 1.7 6 1.7 0 1.6-2.7 1.7-4.4 1.7-2.6 1.7-2.8" stroke="#2ca02c" stroke-width="0.5" fill="none" stroke-opacity="0.4" stroke-linejoin="round"/>
<path d="M31.6 471.7l1.7 .2 1.7 .9 1.7 1.4 1.7 2.9 1.7 3.5 1.6 2.1 1.7 2.4 1.7 1.1 1.7 .9 1.7-2.5 1.7 .4 1.7-.2 1.7 1 1.7 1 1.7-2 1.7-1.2 1.6-1.7 1.7-1.4 1.7 .8 1.7 1.3 1.7 6 1.7 0 1.7 .1 1.7-4.4 1.7-3.3 1.7-4.4 1.7-.5 1.7 .2 1.6-.1 1.7 1.6 1.7-1.1 1.7-1.5 1.7 .2 1.7 .2 1.7-2.1 1.7-1.5 1.7 1.2 1.7 1.2 1.7 4.2 1.6 2.7 1.7 4.8 1.7 3 1.7 2.1 1.7 1.5 1.7 3.7 1.7-2 1.7-6.4 1.7-3.8 1.7-2.2 1.7 .8 1.6 2.5 1.7 2.7 1.7 .8 1.7-1.5 1.7-2.8 1.7-3.1 1.7 3 1.7 .1 1.7 2 1.7 .9 1.7 2 1.6-3.7 1.7-3.9 1.7-5.5 1.7-3.6" stroke="#8c564b" stroke-width="0.5" fill="none" stroke-opacity="0.4" stroke-linejoin="round"/>
<path d="M31.6 482.7l1.7-3.2 1.7-1.5 1.7-2.1 1.7 .2 1.7 1.5 1.6 3.8 1.7 2.2 1.7 3 1.7 1 1.7-.3 1.7-2.9 1.7-7.6 1.7-4.2 1.7-3.6 1.7-.6 1.7 5.3 1.6 8 1.7 7.2 1.7 4.7 1.7 1.6 1.7-4.8 1.7-6.2 1.7-7.2 1.7-5 1.7-.8 1.7 3.5 1.7 5.8 1.7 5.3 1.6 2.7 1.7 .2 1.7-1.8 1.7-3.5 1.7-2.9 1.7-3.6 1.7 .1 1.7-2.5 1.7-1.2 1.7-.1 1.7 0 1.6-1.8 1.7-1.1 1.7-.2 1.7 .9 1.7 2 1.7 2 1.7 2.8 1.7 1 1.7-1.1 1.7 .4 1.7 .3 1.6-1.3 1.7 1.6 1.7-.1 1.7 1.1 1.7 1.7 1.7 1.6 1.7-1.4 1.7-1.5 1.7-1.7 1.7-1.7 1.7-.8 1.6-1.2 1.7 2.4 1.7 2.4 1.7 .4" stroke="#8c564b" stroke-width="0.5" fill="none" stroke-opacity="0.4" stroke-linejoin="round"/>
<path d="M31.6 478.4l1.7 .6 1.7 2.1 1.7 2 1.7 3.9 1.7 1.1 1.6 1.9 1.7-.8 1.7-.7 1.7-1 1.7-.2 1.7-.7 1.7 .6 1.7 .3 1.7 .4 1.7 .4 1.7-1.2 1.6-2 1.7 .5 1.7 .6 1.7 1.2 1.7 .8 1.7-1.1 1.7 .2 1.7-1 1.7-1 1.7-.3 1.7 .1 1.7-2 1.6 .3 1.7 .7 1.7-1.7 1.7-.4 1.7-1.1 1.7-1.5 1.7 .9 1.7 .9 1.7 1.4 1.7 .6 1.7-.1 1.6-2.4 1.7 .9 1.7 1.1 1.7 .9 1.7 2.5 1.7 .6 1.7 .3 1.7 0 1.7-.3 1.7 .5 1.7 .7 1.6-2 1.7-1.8 1.7-1.2 1.7-1.4 1.7-.4 1.7 1.2 1.7-.4 1.7 3.5 1.7 1.9 1.7 1.7 1.7 2.6 1.6 2 1.7 .6 1.7 .2 1.7 0" stroke="#7f7f7f" stroke-width="0.5" fill="none" stroke-opacity="0.4" stroke-linejoin="round"/>
<path d="M31.6 492.2l1.7-.1 1.7 .4 1.7 .5 1.7 .4 1.7 .2 1.6 2.5 1.7-.6 1.7-1.2 1.7-1 1.7 .8 1.7 .8 1.7-.1 1.7-2.4 1.7-3.4 1.7-6.4 1.7-1.1 1.6 2.6 1.7 4.6 1.7 1.8 1.7 1.5 1.7-.1 1.7-2.2 1.7-1 1.7-1.3 1.7 .1 1.7-.9 1.7-1.5 1.7 1.6 1.6-.6 1.7-.1 1.7-1.1 1.7-1.9 1.7-3.3 1.7-4.7 1.7-1.5 1.7 2.5 1.7 4 1.7 5.8 1.7 1.9 1.6 2.4 1.7 .7 1.7 1.7 1.7 .3 1.7 .4 1.7 1.5 1.7-.1 1.7 .3 1.7-1.7 1.7 1.1 1.7-.6 1.6 .2 1.7-.5 1.7 2 1.7-.3 1.7 1.3 1.7-.4 1.7 1.4 1.7-3.7 1.7 1.3 1.7 1.1 1.7 3.1 1.6-.6 1.7-1.5 1.7-4.9 1.7-2.8" stroke="#bcbd22" stroke-width="0.5" fill="none" stroke-opacity="0.4" stroke-linejoin="round"/>
<path d="M31.6 482.7l1.7 1.6 1.7 2.5 1.7 2.4 1.7 2.6 1.7 1.5 1.6-.5 1.7-1.2 1.7 1.2 1.7-1.1 1.7-.3 1.7-.2 1.7 2.2 1.7 3.4 1.7 2 1.7-.7 1.7-.9 1.6 1.5 1.7-4.3 1.7-.5 1.7-5 1.7-3.3 1.7-1.9 1.7-1.5 1.7 1.7 1.7 2.1 1.7 2.3 1.7 2.8 1.7 2.1 1.6-1.5 1.7 .2 1.7-2.7 1.7-2 1.7 .8 1.7 1.4 1.7 1.8 1.7 4.5 1.7 1.5 1.7-3.3 1.7-2.7 1.6-5.9 1.7-3.4 1.7-3 1.7 .4 1.7 4.7 1.7 5.4 1.7 4.2 1.7 2.5 1.7 2.5 1.7 1 1.7-2.7 1.6-1.8 1.7 0 1.7 2.7 1.7-1.3 1.7 .2 1.7-.7 1.7 .1 1.7-1.3 1.7-1.5 1.7-2.7 1.7-.2 1.6 .2 1.7 4.4 1.7 5.3 1.7 2.5" stroke="#17becf" stroke-width="0.5" fill="none" stroke-opacity="0.4" stroke-linejoin="round"/>
<path d="M31.6 490l1.7-1.8 1.7-1.6 1.7-2.6 1.7 .1 1.7-1.2 1.6 .8 1.7-1.1 1.7 1.1 1.7 1.2 1.7 2 1.7 3.1 1.7 0 1.7-1 1.7-3.8 1.7-3.7 1.7-2.5 1.6-.9 1.7-1.2 1.7-3 1.7-1.4 1.7-.2 1.7 .7 1.7 1.7 1.7-2 1.7-.2 1.7 .4 1.7 4.7 1.7 2.3 1.6 3.4 1.7-.3 1.7 .5 1.7-2.1 1.7-1.8 1.7-2.3 1.7 1.4 1.7 .4 1.7 1.5 1.7 1.4 1.7 1.6 1.6 .4 1.7 1.2 1.7-1.8 1.7 1.3 1.7 .6 1.7 1.5 1.7 .8 1.7 5 1.7 .7 1.7 .1 1.7-.3 1.6 .5 1.7-.3 1.7-1.4 1.7-.2 1.7 1 1.7 .7 1.7-3.2 1.7-2 1.7-2.8 1.7-2.8 1.7-2.3 1.6-1.1 1.7-2.6 1.7-2.2 1.7-1.8" stroke="#7f7f7f" stroke-width="0.5" fill="none" stroke-opacity="0.4" stroke-linejoin="round"/>
<path d="M31.6 468.4l1.7 2 1.7 1.7 1.7 1 1.7-2.7 1.7-3 1.6-2.3 1.7 1.2 1.7 2.2 1.7 2.4 1.7 5.4 1.7 3.9 1.7 .5 1.7-.3 1.7-3.1 1.7-1.2 1.7-1.9 1.6-.1 1.7-1 1.7 .3 1.7-1.8 1.7 .3 1.7-.6 1.7 .5 1.7-.1 1.7 1.5 1.7-1.2 1.7 .9 1.7 .6 1.6 .1 1.7-1.3 1.7 3.3 1.7-.4 1.7 1.1 1.7-1.2 1.7 2.1 1.7 .5 1.7 1.1 1.7 1.4 1.7 1.5 1.6 .2 1.7-5.4 1.7-2.4 1.7-1.6 1.7-1.9 1.7 .7 1.7 2.7 1.7 2.3 1.7 .7 1.7-2.2 1.7-1.8 1.6-.4 1.7-2.6 1.7-1.2 1.7-.7 1.7-1.2 1.7-.7 1.7-1.1 1.7 0 1.7 2.6 1.7 4.9 1.7 4.4 1.6 3.7 1.7 .1 1.7-1.7 1.7 .2" stroke="#17becf" stroke-width="0.5" fill="none" stroke-opacity="0.4" stroke-linejoin="round"/>
<path d="M31.6 509.1l1.7-2.5 1.7-3.8 1.7-2.3 1.7-3.6 1.7-3.3 1.6-2.6 1.7-4.3 1.7-1 1.7 2.3 1.7 4.2 1.7 .6 1.7 2.6 1.7 1.3 1.7 2.2 1.7-.8 1.7-.5 1.6-1.9 1.7-2.2 1.7-5.5 1.7-3 1.7-2.2 1.7-1.7 1.7-1.2 1.7 2.1 1.7-1.5 1.7 4.3 1.7 .5 1.7 2.6 1.6-1.3 1.7-1.1 1.7-4.1 1.7-.5 1.7 1.8 1.7 2.4 1.7 4.1 1.7 3.8 1.7-.8 1.7-2.1 1.7-2.9 1.6-2.5 1.7-1.5 1.7-1 1.7 2 1.7 3 1.7 4.8 1.7 1.7 1.7 3.8 1.7 1.9 1.7-2.1 1.7-.8 1.6-.3 1.7-.7 1.7-1.7 1.7-1.9 1.7-1.6 1.7-.1 1.7-1 1.7-3.6 1.7-1.6 1.7-2 1.7-1.2 1.6 .9 1.7 2.2 1.7 3.9 1.7 3" stroke="#d62728" stroke-width="0.5" fill="none" stroke-opacity="0.4" stroke-linejoin="round"/>
<path d="M31.6 484.3l1.7-.5 1.7 1.1 1.7 2.6 1.7-.1 1.7 .9 1.6-.4 1.7-.5 1.7 1 1.7-.5 1.7 1 1.7 1.5 1.7-1.2 1.7-1.1 1.7 .1 1.7-.9 1.7-2.6 1.6 .5 1.7-1.4 1.7 2.5 1.7 2 1.7 1.3 1.7-.3 1.7-.8 1.7-2.5 1.7-.4 1.7 1.1 1.7 .6 1.7 1.7 1.6 1.6 1.7-.7 1.7-1.5 1.7-.9 1.7-.5 1.7-1.6 1.7-1.9 1.7-.8 1.7-.4 1.7 .6 1.7-1.9 1.6 .9 1.7 .7 1.7 1.9 1.7 1.4 1.7 1.9 1.7-.7 1.7-.6 1.7 1 1.7-.4 1.7-1.2 1.7-.3 1.6 .6 1.7-.2 1.7 0 1.7 .9 1.7 0 1.7 .8 1.7 .7 1.7-.3 1.7 1.1 1.7 .8 1.7 1 1.6 2.2 1.7 1.2 1.7 .4 1.7 .5" stroke="#1f77b4" stroke-width="0.5" fill="none" stroke-opacity="0.4" stroke-linejoin="round"/>
<path d="M31.6 476l1.7 2.3 1.7 1.7 1.7 1.5 1.7 3.4 1.7 1.7 1.6-1.9 1.7-3.6 1.7-3.5 1.7-.7 1.7-2.7 1.7-2.1 1.7-.5 1.7 1.9 1.7-.3 1.7 3.1 1.7 2 1.6-1.6 1.7-.8 1.7-3.6 1.7-3.5 1.7-3.3 1.7-.8 1.7 .6 1.7 3.7 1.7 1.3 1.7-.5 1.7-2.5 1.7-2.8 1.6-2.4 1.7 .6 1.7-2.3 1.7 0 1.7-.9 1.7 1.6 1.7 2.5 1.7 7.9 1.7 .5 1.7 3.3 1.7 2.9 1.6 4.2 1.7 2.9 1.7 1.6 1.7-1 1.7 3.6 1.7-.6 1.7 2.6 1.7-.6 1.7 .9 1.7-7.2 1.7-3.7 1.6-4.2 1.7 3.6 1.7-.7 1.7 3.1 1.7 3.2 1.7 3.5 1.7-.2 1.7-.6 1.7-5.6 1.7-2.3 1.7-7.2 1.6-5.1 1.7-2.8 1.7-1.5 1.7-3.6" stroke="#d62728" stroke-width="0.5" fill="none" stroke-opacity="0.4" stroke-linejoin="round"/>
<path d="M31.6 483.2l1.7 .5 1.7 .8 1.7 .2 1.7 2.7 1.7-.5 1.6 .8 1.7-2.3 1.7-.5 1.7-2.5 1.7 .4 1.7-.7 1.7 .8 1.7 .9 1.7 .6 1.7 0 1.7 1.4 1.6-.5 1.7 .3 1.7-1 1.7 1.3 1.7-1 1.7 .5 1.7-.4 1.7-1.1 1.7-2.4 1.7-2.1 1.7-2.8 1.7-1.1 1.6-1 1.7-.6 1.7-.6 1.7-.8 1.7-1.6 1.7 1 1.7 .7 1.7 .9 1.7 2 1.7 2.5 1.7 .2 1.6 1.8 1.7 .7 1.7 .5 1.7 .5 1.7 .5 1.7 1.9 1.7 2.5 1.7-1 1.7-.5 1.7-1.2 1.7-.5 1.6-1.9 1.7-.7 1.7 .6 1.7 1.5 1.7-.6 1.7-.1 1.7 1.8 1.7 1 1.7-2.1 1.7-1.2 1.7-1.2 1.6 .5 1.7-.2 1.7 1 1.7 .7" stroke="#ff7f0e" stroke-width="0.5" fill="none" stroke-opacity="0.4" stroke-linejoin="round"/>
<path d="M31.6 471.6l1.7 .8 1.7 1.3 1.7 .2 1.7-.1 1.7-1.1 1.6-2.6 1.7-.6 1.7-.4 1.7-1.2 1.7-1.3 1.7-1.1 1.7-.4 1.7 1.1 1.7 .4 1.7 1.4 1.7 1.8 1.6 2.9 1.7 1.9 1.7 3.1 1.7 0 1.7-.7 1.7-1.7 1.7 0 1.7 1.1 1.7 0 1.7-.1 1.7 1 1.7 1.2 1.6 .7 1.7-.6 1.7-2.1 1.7-2.7 1.7-5.2 1.7-3 1.7 .3 1.7 2.2 1.7 4.4 1.7 4.7 1.7 3.3 1.6 1.7 1.7 .6 1.7 .8 1.7 .2 1.7-1.2 1.7-2 1.7 .3 1.7-1.2 1.7-1.3 1.7-1.2 1.7-.2 1.6 1 1.7 1.3 1.7 .5 1.7 1.2 1.7 .8 1.7-1.2 1.7-1.3 1.7-1.5 1.7-.6 1.7-.4 1.7 .6 1.6-.4 1.7-1.4 1.7-2.9 1.7-1.4" stroke="#d62728" stroke-width="0.5" fill="none" stroke-opacity="0.4" stroke-linejoin="round"/>
<path d="M31.6 474.8l1.7 2.8 1.7 3.9 1.7 4 1.7 2.9 1.7 .9 1.6-3.7 1.7-2.1 1.7-1.7 1.7-2.4 1.7-2.2 1.7 0 1.7 0 1.7 1.7 1.7 3.9 1.7 3.2 1.7 4.1 1.6 1.1 1.7-.4 1.7-1.9 1.7-5.4 1.7-5.4 1.7-1 1.7 4 1.7 3.5 1.7 6.8 1.7 3 1.7 1.4 1.7-.1 1.6-.7 1.7-.5 1.7-.5 1.7 .7 1.7 .9 1.7 1.5 1.7 1.2 1.7 2.6 1.7-.3 1.7-1.2 1.7-1.9 1.6-2.5 1.7-.8 1.7 .1 1.7-1.3 1.7-4.4 1.7-1.3 1.7-3.2 1.7-.8 1.7-.7 1.7-.2 1.7 .9 1.6-1.4 1.7-.9 1.7 1.9 1.7 2.4 1.7 .6 1.7-1.6 1.7-2.7 1.7-4.8 1.7-2.7 1.7-2 1.7 2.3 1.6 5.8 1.7 3.4 1.7 2.5 1.7 1.5" stroke="#9467bd" stroke-width="0.5" fill="none" stroke-opacity="0.4" stroke-linejoin="round"/>
<path d="M31.6 466.3l1.7 .1 1.7 2.2 1.7 3.7 1.7 5.9 1.7 3.3 1.6 .3 1.7-3.7 1.7-2.6 1.7-1.6 1.7 1.4 1.7 4.5 1.7 5.7 1.7 6.3 1.7 .7 1.7-1.7 1.7-4.6 1.6-4.6 1.7-5.3 1.7-1.4 1.7 2.2 1.7 3.4 1.7 .9 1.7-1 1.7-2.2 1.7-3 1.7-4.3 1.7-.6 1.7 1.8 1.6 2.5 1.7 1.2 1.7 2.1 1.7 2.4 1.7 1.8 1.7 1.4 1.7 .1 1.7 2.9 1.7-1 1.7-.3 1.7-2 1.6 .5 1.7-6.6 1.7-3.3 1.7-4.6 1.7 .5 1.7 2 1.7 5.1 1.7 3 1.7 2.1 1.7 .1 1.7-.6 1.6-.8 1.7-1.7 1.7 1 1.7 2.5 1.7 1.1 1.7 .8 1.7-.6 1.7-.2 1.7 0 1.7 .7 1.7 3.3 1.6 2.9 1.7 1.8 1.7 .7 1.7 1.1" stroke="#ff7f0e" stroke-width="0.5" fill="none" stroke-opacity="0.4" stroke-linejoin="round"/>
<path d="M31.6 487.2l1.7 0 1.7-1.9 1.7-1.4 1.7-.1 1.7 2 1.6-.2 1.7-.4 1.7 .1 1.7 0 1.7-.8 1.7-1.1 1.7-.9 1.7-.5 1.7-1.7 1.7 1.5 1.7 1.9 1.6 2.3 1.7 .4 1.7-1.7 1.7-3 1.7-3.1 1.7-2 1.7-1.3 1.7 .3 1.7 1.6 1.7 3.4 1.7 .3 1.7 1 1.6 .1 1.7-.4 1.7-.8 1.7 .6 1.7 2.3 1.7 .7 1.7-.3 1.7-.7 1.7 2.4 1.7 1.7 1.7 .2 1.6-1.2 1.7-1.3 1.7-1.3 1.7 .8 1.7-.4 1.7 .7 1.7-2.1 1.7-.4 1.7-.8 1.7 1.2 1.7 1.2 1.6 .2 1.7 .5 1.7 1 1.7-.8 1.7-1.8 1.7-2.5 1.7 .5 1.7 1 1.7 4.1 1.7 3.7 1.7 4 1.6 1.4 1.7 .9 1.7-.3 1.7-.1" stroke="#17becf" stroke-width="0.5" fill="none" stroke-opacity="0.4" stroke-linejoin="round"/>
<path d="M31.6 499.1l1.7-2.5 1.7-2.9 1.7-2.2 1.7-1.4 1.7-3.1 1.6-1.8 1.7-2.2 1.7 1.9 1.7 .4 1.7 1.6 1.7 .9 1.7 1.1 1.7-1.5 1.7-.6 1.7-.3 1.7 2.4 1.6 1.9 1.7 2.2 1.7-.8 1.7-.2 1.7-1.4 1.7 .2 1.7-.2 1.7-.7 1.7-1.3 1.7-.6 1.7-.8 1.7 1.2 1.6-.1 1.7 .1 1.7 .1 1.7-.2 1.7 .3 1.7 .6 1.7 .3 1.7 2 1.7 1.6 1.7-.1 1.7-.4 1.6 .1 1.7-1.7 1.7-1.8 1.7-1.3 1.7-.1 1.7 .1 1.7-.6 1.7 .5 1.7 1.4 1.7-.9 1.7 .9 1.6-.2 1.7 1.9 1.7-.3 1.7 1.9 1.7 1.2 1.7 1 1.7-.4 1.7 2 1.7-.9 1.7-1.9 1.7-1.9 1.6 1.5 1.7 1.7 1.7 4.2 1.7 1" stroke="#e377c2" stroke-width="0.5" fill="none" stroke-opacity="0.4" stroke-linejoin="round"/>
<path d="M31.6 476l1.7 3.8 1.7 5.1 1.7 4.2 1.7 .1 1.7-2.3 1.6-1.9 1.7-2.8 1.7-1.5 1.7-.3 1.7 1.5 1.7 .6 1.7 3.1 1.7 1.7 1.7 1.2 1.7-.2 1.7-3.1 1.6-1.5 1.7-3.3 1.7-2.3 1.7-1.8 1.7 1.6 1.7 2.3 1.7 1.7 1.7 2 1.7-.5 1.7-3.8 1.7-4.5 1.7-4.1 1.6 .2 1.7 .8 1.7 3.2 1.7 1.8 1.7 1.6 1.7 .1 1.7-2.3 1.7-3.8 1.7-1.4 1.7 1.1 1.7 .6 1.6 3.3 1.7 4.2 1.7 2.3 1.7 .2 1.7 1.2 1.7-.8 1.7-1 1.7-1.5 1.7-1.6 1.7-.6 1.7-2.5 1.6 1.3 1.7 3.9 1.7 3.2 1.7 1.8 1.7 1.7 1.7 .2 1.7-3.2 1.7-4.2 1.7-1.7 1.7 .6 1.7 1.1 1.6 3.6 1.7 3.6 1.7 4.4 1.7 2.4" stroke="#8c564b" stroke-width="0.5" fill="none" stroke-opacity="0.4" stroke-linejoin="round"/>
<path d="M31.6 498l1.7-.2 1.7-2.2 1.7-3.4 1.7-3.8 1.7-3.4 1.6-.8 1.7-1.7 1.7 2.3 1.7 .1 1.7 1.4 1.7 1.4 1.7 4.1 1.7 2 1.7-1.2 1.7-.5 1.7-.7 1.6-.8 1.7-2.7 1.7-.7 1.7 1.9 1.7 2.1 1.7-.4 1.7 1.8 1.7-.2 1.7-2.2 1.7-4.1 1.7-2.8 1.7-3.6 1.6-2.2 1.7-1.3 1.7-.5 1.7 2.5 1.7 2.6 1.7 1.5 1.7 .9 1.7 .8 1.7 .5 1.7 1.8 1.7 .5 1.6 1 1.7-1.1 1.7-.8 1.7-3.8 1.7-1 1.7-1.5 1.7 1.8 1.7 1.1 1.7 3.7 1.7-.7 1.7 .5 1.6-2.7 1.7-.8 1.7-1.1 1.7-.5 1.7-1.1 1.7-.2 1.7 2.8 1.7 2.2 1.7 1.5 1.7-.2 1.7-.7 1.6 0 1.7 .9 1.7 1.1 1.7 .6" stroke="#d62728" stroke-width="0.5" fill="none" stroke-opacity="0.4" stroke-linejoin="round"/>
<polygon points="31.6,477.6 33.3,478.4 35,478.8 36.7,479.5 38.4,479.2 40.1,479.1 41.7,478.9 43.4,479.2 45.1,479.4 46.8,479.9 48.5,480.3 50.2,480.7 51.9,481.1 53.6,481.1 55.3,481.3 57,481.5 58.7,481.7 60.3,481.5 62,481.4 63.7,481.4 65.4,481.4 67.1,481.8 68.8,482.3 70.5,482.6 72.2,482.5 73.9,482.5 75.6,482.1 77.3,481.9 79,481.9 80.6,482.3 82.3,482.8 84,482.8 85.7,482.9 87.4,483 89.1,482.8 90.8,482.9 92.5,483.4 94.2,483.6 95.9,483.7 97.6,483.9 99.2,483.9 100.9,483.7 102.6,483.7 104.3,483.7 106,483.6 107.7,483.6 109.4,483.8 111.1,483.9 112.8,483.9 114.5,483.9 116.2,483.9 117.8,484 119.5,483.9 121.2,484 122.9,484.1 124.6,483.8 126.3,483.6 128,484 129.7,484.2 131.4,484.4 133.1,485 134.8,485.3 136.4,485.1 138.1,485.1 139.8,485.4 141.5,485.2 141.5,487.3 139.8,487.4 138.1,487.2 136.4,487.2 134.8,487.4 133.1,487.1 131.4,486.4 129.7,486.3 128,486.1 126.3,485.7 124.6,485.9 122.9,486.2 121.2,486.1 119.5,486 117.8,486.1 116.2,486 114.5,486 112.8,486 111.1,486 109.4,485.9 107.7,485.7 106,485.7 104.3,485.8 102.6,485.8 100.9,485.8 99.2,486 97.6,486 95.9,485.8 94.2,485.7 92.5,485.5 90.8,485 89.1,484.9 87.4,485.1 85.7,485 84,484.9 82.3,484.9 80.6,484.4 79,484 77.3,484 75.6,484.2 73.9,484.6 72.2,484.6 70.5,484.7 68.8,484.4 67.1,483.9 65.4,483.5 63.7,483.5 62,483.5 60.3,483.6 58.7,483.8 57,483.6 55.3,483.4 53.6,483.2 51.9,483.2 50.2,482.8 48.5,482.4 46.8,482 45.1,481.5 43.4,481.3 41.7,481 40.1,481.2 38.4,481.3 36.7,481.6 35,480.9 33.3,480.5 31.6,479.7" fill="#2a9fd8" fill-opacity="0.95"/>
<path d="M31.6 447.5V525.8" stroke="#f25c86" stroke-width="1.100" stroke-dasharray="4.400 1.800" fill="none"/>
</g>
<rect x="25.6" y="447" width="121.4" height="78.8" fill="none" stroke="#222" stroke-width=".8"/>
<path d="M31.6 525.8v2.200M54.5 525.8v2.200M77.4 525.8v2.200M100.3 525.8v2.200M123.2 525.8v2.200M146.1 525.8v2.200M25.6 525.8h-2.200M25.6 499.6h-2.200M25.6 473.4h-2.200M25.6 447.2h-2.200" stroke="#222" stroke-width=".6" fill="none"/>
<g font-size="7"><text x="31.6" y="534.1" text-anchor="middle">0</text><text x="54.5" y="534.1" text-anchor="middle">5</text><text x="77.4" y="534.1" text-anchor="middle">10</text><text x="100.3" y="534.1" text-anchor="middle">15</text><text x="123.2" y="534.1" text-anchor="middle">20</text><text x="146.1" y="534.1" text-anchor="middle">25</text><text x="22.4" y="528.2" text-anchor="end">−0.04</text><text x="22.4" y="502" text-anchor="end">0.00</text><text x="22.4" y="475.8" text-anchor="end">0.04</text><text x="22.4" y="449.6" text-anchor="end">0.08</text><text x="79" y="542.3" text-anchor="middle">Time (h)</text><text transform="translate(6 488.5) rotate(-90)" text-anchor="middle">Growth rate (h⁻¹)</text></g>
<rect x="32.4" y="502.5" width="48.5" height="21.4" rx="1" fill="#fff" fill-opacity=".8" stroke="#ccc" stroke-width=".5"/>
<g font-size="5.75"><path d="M34.9 505.5h7.5" stroke="#f2557f" stroke-width=".8" stroke-dasharray="2.800 1.200"/><text x="44.9" y="507.4">Drug addition</text><rect x="34.9" y="510.5" width="7.5" height="3.400" fill="#a9d9f1"/><text x="44.9" y="514.1">Mean±SD</text><rect x="34.9" y="517.2" width="7.5" height="3.400" fill="#2a9fd8"/><text x="44.9" y="520.8">Mean±SEM</text></g>
<clipPath id="c4"><rect x="168.3" y="447" width="121.5" height="78.8"/></clipPath>
<rect x="168.3" y="447" width="121.5" height="78.8" fill="#fff"/>
<g clip-path="url(#c4)">
<polygon points="174.5,474.6 176.2,473.3 177.9,472.8 179.6,473.3 181.3,474.7 183,476.9 184.6,479.5 186.3,482.3 188,484.9 189.7,487.2 191.4,488.9 193.1,490.3 194.8,491.2 196.5,491.8 198.2,492.2 199.9,492.6 201.6,492.8 203.2,493 204.9,493.1 206.6,493.3 208.3,493.5 210,493.6 211.7,493.8 213.4,493.9 215.1,494 216.8,494.1 218.5,494.2 220.2,494.3 221.9,494.4 223.5,494.5 225.2,494.5 226.9,494.6 228.6,494.6 230.3,494.6 232,494.6 233.7,494.5 235.4,494.5 237.1,494.5 238.8,494.4 240.5,494.3 242.1,494.2 243.8,494.1 245.5,494.1 247.2,494 248.9,493.9 250.6,493.8 252.3,493.7 254,493.6 255.7,493.5 257.4,493.5 259.1,493.4 260.7,493.4 262.4,493.4 264.1,493.4 265.8,493.4 267.5,493.4 269.2,493.4 270.9,493.5 272.6,493.5 274.3,493.6 276,493.7 277.7,493.8 279.3,493.9 281,494 282.7,494 284.4,494.1 284.4,502 282.7,501.9 281,501.8 279.3,501.7 277.7,501.6 276,501.5 274.3,501.5 272.6,501.4 270.9,501.3 269.2,501.3 267.5,501.3 265.8,501.2 264.1,501.2 262.4,501.3 260.7,501.3 259.1,501.3 257.4,501.4 255.7,501.4 254,501.5 252.3,501.6 250.6,501.7 248.9,501.8 247.2,501.9 245.5,502 243.8,502.1 242.1,502.2 240.5,502.3 238.8,502.3 237.1,502.4 235.4,502.5 233.7,502.6 232,502.6 230.3,502.6 228.6,502.6 226.9,502.7 225.2,502.7 223.5,502.6 221.9,502.6 220.2,502.6 218.5,502.5 216.8,502.5 215.1,502.4 213.4,502.4 211.7,502.3 210,502.3 208.3,502.2 206.6,502.2 204.9,502.2 203.2,502.1 201.6,502.1 199.9,502.1 198.2,502 196.5,501.8 194.8,501.4 193.1,500.8 191.4,499.9 189.7,498.5 188,496.7 186.3,494.6 184.6,492.4 183,490.4 181.3,488.9 179.6,488.4 177.9,488.9 176.2,490.5 174.5,493" fill="#f8a9c0" fill-opacity="0.6"/>
<path d="M174.5 486l1.7 2.8 1.7 5.4 1.7 5.1 1.7 1.8 1.7 2.3 1.6-.3 1.7-2.1 1.7-2.2 1.7-.3 1.7-2.3 1.7 .3 1.7-1.4 1.7 .5 1.7 1.5 1.7 1.7 1.7 1.9 1.6 4.6 1.7 4.5 1.7 3.9 1.7 6.4 1.7 4.3 1.7 2.1 1.7 .2 1.7 3.7 1.7-2 1.7-3.1 1.7-2.5 1.7-2.6 1.6-7.9 1.7-2.7 1.7-2.4 1.7-1.8 1.7-6 1.7-4.8 1.7-4.2 1.7-1.3 1.7 .5 1.7 3 1.7 7.2 1.6 8.2 1.7 4.5 1.7 1 1.7 2.6 1.7-1.7 1.7-6.9 1.7-5 1.7-5.4 1.7-4.7 1.7-3.4 1.7-2.3 1.6 .1 1.7 4.9 1.7 2.8 1.7 4.7 1.7 5.1 1.7 5.3 1.7 2.7 1.7 3.7 1.7-2.1 1.7 .5 1.7 .3 1.6 2.7 1.7 4.2 1.7 8.6 1.7 5.6" stroke="#d62728" stroke-width="0.5" fill="none" stroke-opacity="0.4" stroke-linejoin="round"/>
<path d="M174.5 484.3l1.7-1.9 1.7-.4 1.7 1.4 1.7 2.3 1.7 3.6 1.6 3.6 1.7 2.5 1.7 1.8 1.7-.4 1.7-.2 1.7-.8 1.7 .9 1.7 .5 1.7 1.7 1.7 .6 1.7 .1 1.6 .1 1.7-.2 1.7-.5 1.7-.2 1.7-.8 1.7 1.1 1.7 1.2 1.7 1.1 1.7 .2 1.7 1 1.7 .2 1.7 .3 1.6-.3 1.7-.5 1.7-1.1 1.7-.7 1.7-.7 1.7-.4 1.7 .3 1.7 1.3 1.7 1.9 1.7 .2 1.7-.7 1.6-1.8 1.7-1.1 1.7-.8 1.7-.4 1.7 .7 1.7 .1 1.7-.1 1.7-.8 1.7-1.5 1.7-.4 1.7 .9 1.6 .5 1.7 1.7 1.7 1.7 1.7 .9 1.7 .7 1.7-.2 1.7 0 1.7-1.1 1.7-.5 1.7-.9 1.7 1.4 1.6 .1 1.7 .7 1.7 .7 1.7 .5" stroke="#e377c2" stroke-width="0.5" fill="none" stroke-opacity="0.4" stroke-linejoin="round"/>
<path d="M174.5 479.3l1.7-.7 1.7-.2 1.7 .1 1.7 2 1.7 2.5 1.6 2.7 1.7 2.8 1.7 3.6 1.7 2.5 1.7 1.7 1.7 .2 1.7-.5 1.7-.7 1.7-1.9 1.7-.2 1.7-.6 1.6-.7 1.7-1 1.7 .6 1.7 1.4 1.7 .7 1.7 1.1 1.7-1.1 1.7-.7 1.7-.3 1.7 .8 1.7-.1 1.7 .2 1.6-.3 1.7-.2 1.7 .3 1.7 .5 1.7 1 1.7 .9 1.7-.6 1.7 .1 1.7-.7 1.7-.1 1.7-1.1 1.6 .7 1.7-.3 1.7 1.5 1.7-.6 1.7 1.4 1.7 .6 1.7 .5 1.7 .1 1.7-.5 1.7-2.8 1.7-1.8 1.6-.2 1.7-.3 1.7 .7 1.7 .9 1.7 .4 1.7-1 1.7-.8 1.7-1.2 1.7 .9 1.7 .3 1.7 1 1.6 .6 1.7-.1 1.7-1.4 1.7-.7" stroke="#e377c2" stroke-width="0.5" fill="none" stroke-opacity="0.4" stroke-linejoin="round"/>
<path d="M174.5 481.9l1.7-4.6 1.7-4.4 1.7-.9 1.7-.5 1.7 1.7 1.6 2.3 1.7 4.5 1.7 3.7 1.7 2.6 1.7 1.6 1.7 2.8 1.7 3 1.7 2.6 1.7 1.6 1.7 0 1.7-3.3 1.6-2 1.7-1 1.7-.3 1.7 .7 1.7 2.7 1.7-.4 1.7-.5 1.7-2.5 1.7 1.4 1.7 2.3 1.7 2.1 1.7 .8 1.6 .4 1.7-1.9 1.7-.6 1.7 .8 1.7 1 1.7-.1 1.7-.6 1.7-3.5 1.7-3 1.7-2.9 1.7 .4 1.6 1.5 1.7 1.6 1.7 1.9 1.7 2.6 1.7 2.2 1.7 2.3 1.7 .7 1.7-.8 1.7-2 1.7-2.7 1.7-2.6 1.6-.8 1.7 .4 1.7 1.3 1.7 1.1 1.7 .4 1.7 1.2 1.7-.7 1.7-2 1.7-1.2 1.7 .5 1.7 1.3 1.6 2.6 1.7 2.6 1.7 1.8 1.7 1.4" stroke="#7f7f7f" stroke-width="0.5" fill="none" stroke-opacity="0.4" stroke-linejoin="round"/>
<path d="M174.5 480.4l1.7-3.2 1.7-2.7 1.7-.1 1.7 2.5 1.7 3.2 1.6 4 1.7 3.9 1.7 2 1.7 1.2 1.7 .9 1.7 .7 1.7-.7 1.7 1.3 1.7-1.1 1.7 .5 1.7-1.2 1.6 1.2 1.7 .4 1.7 1.1 1.7 .2 1.7 3.1 1.7 1.7 1.7 2.7 1.7 2.8 1.7 2.4 1.7-.4 1.7-2.2 1.7-2.8 1.6-2.9 1.7-.3 1.7 .9 1.7 2.6 1.7 1 1.7 .4 1.7-1.9 1.7-2.2 1.7-2.8 1.7-.1 1.7 0 1.6 1.7 1.7-1 1.7-.2 1.7-3.5 1.7-1.8 1.7-1.9 1.7 1.9 1.7 2.4 1.7 3.4 1.7 2.9 1.7 .9 1.6 .2 1.7-1.2 1.7-.8 1.7-.3 1.7-.4 1.7-.9 1.7-1.7 1.7-1.4 1.7 .3 1.7-.1 1.7 0 1.6 .6 1.7 1.3 1.7 .7 1.7 .6" stroke="#7f7f7f" stroke-width="0.5" fill="none" stroke-opacity="0.4" stroke-linejoin="round"/>
<path d="M174.5 477l1.7-3.5 1.7-1.1 1.7 1.1 1.7 1.6 1.7 2.6 1.6 2 1.7 3.1 1.7 2.4 1.7 2.3 1.7 1.8 1.7 1.5 1.7 1.3 1.7 1.4 1.7 1.1 1.7 .5 1.7-.4 1.6 1.1 1.7-.3 1.7 .8 1.7-.1 1.7 1.4 1.7 1.2 1.7 .7 1.7 0 1.7-1 1.7-1.5 1.7-1.5 1.7-1.1 1.6-.1 1.7-.5 1.7 1.1 1.7 .8 1.7 1.3 1.7 .4 1.7 0 1.7-.4 1.7 .3 1.7 1.2 1.7 1.6 1.6 1.5 1.7 0 1.7-.5 1.7-.9 1.7-1.4 1.7-1.5 1.7-.6 1.7 .7 1.7 .3 1.7 .1 1.7-.8 1.6-.7 1.7-.5 1.7-.4 1.7 .4 1.7 .7 1.7 .6 1.7 .6 1.7 1 1.7 .8 1.7-1 1.7-1 1.6-1.3 1.7 .6 1.7 .7 1.7 1.1" stroke="#7f7f7f" stroke-width="0.5" fill="none" stroke-opacity="0.4" stroke-linejoin="round"/>
<path d="M174.5 489.2l1.7-3.5 1.7-3.8 1.7-1.8 1.7-.7 1.7 1.6 1.6 1.8 1.7 2.1 1.7 4 1.7 3.8 1.7 1.6 1.7 1.7 1.7 .4 1.7 .1 1.7-.7 1.7-.4 1.7-.5 1.6 .5 1.7 1.3 1.7 .8 1.7 1.1 1.7-.4 1.7 0 1.7-.1 1.7-1.1 1.7 .3 1.7 .8 1.7 .5 1.7 1 1.6 1.3 1.7 .8 1.7-.1 1.7-1.3 1.7-.5 1.7-1 1.7-.4 1.7-1.3 1.7 .5 1.7 0 1.7 1.1 1.6 1.2 1.7 .7 1.7 .3 1.7 .1 1.7-.8 1.7 .4 1.7-1.1 1.7 0 1.7-.7 1.7-.7 1.7-1.2 1.6 .2 1.7-.5 1.7 .6 1.7 .4 1.7 .9 1.7 .6 1.7 1 1.7-.7 1.7 .4 1.7-.8 1.7-.5 1.6 .2 1.7 1.1 1.7 1.5 1.7 1.6" stroke="#d62728" stroke-width="0.5" fill="none" stroke-opacity="0.4" stroke-linejoin="round"/>
<path d="M174.5 496.2l1.7-2.5 1.7-3.5 1.7-2.8 1.7-2.5 1.7-.7 1.6 .3 1.7 2.3 1.7 2.2 1.7 2.6 1.7 1.6 1.7 2.2 1.7 .5 1.7-.4 1.7-.4 1.7 1.1 1.7 1.4 1.6 1.7 1.7 2.8 1.7 .8 1.7 .2 1.7-.2 1.7-.6 1.7-2 1.7-1.5 1.7 1 1.7 2 1.7-.4 1.7-1.1 1.6-1.4 1.7 0 1.7-1.8 1.7-.6 1.7-1.1 1.7-.3 1.7-.3 1.7 .8 1.7 0 1.7 .5 1.7-.5 1.6 1.4 1.7-.1 1.7 1.4 1.7 .3 1.7 .9 1.7-1 1.7 .2 1.7 .7 1.7-.5 1.7-1.2 1.7-1.3 1.6-1.4 1.7-1 1.7-1.2 1.7 .1 1.7 .4 1.7 1.8 1.7 1.2 1.7 1 1.7 .6 1.7 .2 1.7-.4 1.6-.1 1.7 .3 1.7 0 1.7-.8" stroke="#7f7f7f" stroke-width="0.5" fill="none" stroke-opacity="0.4" stroke-linejoin="round"/>
<path d="M174.5 478.5l1.7-1.8 1.7-.8 1.7 .6 1.7 2.9 1.7 3.9 1.6 4 1.7 3.4 1.7 1.4 1.7 .3 1.7-1.4 1.7-.7 1.7-2.4 1.7 .5 1.7 .6 1.7 1.6 1.7 1.2 1.6 .4 1.7 1.3 1.7 .6 1.7 1.9 1.7 1.3 1.7 1.1 1.7 .2 1.7 .8 1.7 .5 1.7-.7 1.7-.4 1.7 .7 1.6 .8 1.7 .4 1.7-1.8 1.7-1.3 1.7-2 1.7-.4 1.7-.2 1.7 1 1.7 .5 1.7 .3 1.7-1.6 1.6-.4 1.7-.9 1.7 1.5 1.7-.9 1.7-.4 1.7-1.1 1.7 1 1.7-.3 1.7 .8 1.7 1.3 1.7 1.2 1.6-.9 1.7-1.6 1.7-1.7 1.7-1.3 1.7-1.5 1.7 0 1.7 .3 1.7 .4 1.7 1.3 1.7 1.3 1.7 1.5 1.6 .6 1.7-1.4 1.7-3.4 1.7-2.1" stroke="#2ca02c" stroke-width="0.5" fill="none" stroke-opacity="0.4" stroke-linejoin="round"/>
<path d="M174.5 485.1l1.7-2.7 1.7-1.7 1.7 .7 1.7 .3 1.7 2.9 1.6 3 1.7 4 1.7 2 1.7 1.8 1.7 1.9 1.7 1.1 1.7 1 1.7-.8 1.7 .2 1.7-.7 1.7 1.1 1.6 1.6 1.7 1.2 1.7 .7 1.7-.8 1.7-1.6 1.7-1.3 1.7-1.2 1.7-1.1 1.7 .3 1.7 1.6 1.7 1.1 1.7 1 1.6 0 1.7 .8 1.7 1.8 1.7 .1 1.7-.2 1.7-1.2 1.7 .4 1.7 .2 1.7 2.5 1.7-.3 1.7-1.2 1.6-2.2 1.7-1.9 1.7-1.8 1.7-.3 1.7-.7 1.7-.3 1.7-.1 1.7-.2 1.7 1.1 1.7 2 1.7 1.1 1.6 1.5 1.7 .7 1.7-2 1.7-.7 1.7-.9 1.7-1.1 1.7 .1 1.7 .7 1.7 1.1 1.7 1.2 1.7 .9 1.6 .8 1.7-.6 1.7-1.3 1.7-1.3" stroke="#7f7f7f" stroke-width="0.5" fill="none" stroke-opacity="0.4" stroke-linejoin="round"/>
<path d="M174.5 435.3l1.7 3 1.7 5.9 1.7 5.1 1.7 1.3 1.7 2.2 1.6 3.8 1.7 5.6 1.7 8 1.7 8.1 1.7 4.1 1.7 2.9 1.7 .3 1.7-2.3 1.7-.9 1.7-.8 1.7-.7 1.6 .3 1.7 2.6 1.7-.4 1.7 .8 1.7 .2 1.7 1.1 1.7 1.8 1.7 .7 1.7-1.9 1.7-1.2 1.7-1.3 1.7-1.8 1.6-.6 1.7 3.9 1.7 4.1 1.7 3.8 1.7 4.4 1.7 3.5 1.7 .6 1.7-5.5 1.7-8.2 1.7-8.6 1.7-6.6 1.6-3.8 1.7 .1 1.7 .2 1.7 1.2 1.7-.4 1.7 .7 1.7 1.5 1.7 1.4 1.7 3.1 1.7 4.1 1.7 .4 1.6-.1 1.7 1 1.7 1.2 1.7 1.5 1.7-.8 1.7-.9 1.7-.8 1.7-2.5 1.7-4.2 1.7-4.1 1.7-4.8 1.6-5.6 1.7-6.8 1.7-5.5 1.7-3.6" stroke="#1f77b4" stroke-width="0.5" fill="none" stroke-opacity="0.4" stroke-linejoin="round"/>
<path d="M174.5 485.9l1.7-2.7 1.7-1.5 1.7 .8 1.7 1.9 1.7 1.9 1.6 2.7 1.7 2.7 1.7 1.4 1.7 .6 1.7 0 1.7 1 1.7 .6 1.7-.9 1.7 .5 1.7 .7 1.7-1 1.6 .3 1.7 0 1.7 1.8 1.7 .2 1.7 1.4 1.7 0 1.7 .4 1.7-1.4 1.7-.5 1.7 .8 1.7-.8 1.7 0 1.6 .9 1.7 .8 1.7 .8 1.7 .8 1.7 .4 1.7 .5 1.7-.6 1.7-1.3 1.7-.5 1.7 .7 1.7 .3 1.6 1.1 1.7 .5 1.7-.4 1.7-.3 1.7-.4 1.7-.1 1.7 .7 1.7 .3 1.7-.1 1.7-.8 1.7-1.4 1.6-1.2 1.7 .9 1.7 0 1.7 0 1.7-.5 1.7 1.1 1.7-.5 1.7-.1 1.7-.8 1.7 0 1.7-.1 1.6 .4 1.7 .4 1.7 .2 1.7-.3" stroke="#e377c2" stroke-width="0.5" fill="none" stroke-opacity="0.4" stroke-linejoin="round"/>
<path d="M174.5 479.7l1.7-.6 1.7 1.6 1.7 2.6 1.7 2.6 1.7 2.8 1.6 2.2 1.7 1 1.7 1.4 1.7 1.7 1.7 3.2 1.7 .9 1.7 1.1 1.7 .7 1.7 .4 1.7-1 1.7-.7 1.6-.1 1.7-.4 1.7-.6 1.7-.6 1.7 .3 1.7-.9 1.7-.7 1.7 .1 1.7-.4 1.7-1 1.7-.7 1.7-.6 1.6 .9 1.7 1.8 1.7 1.9 1.7 .5 1.7 .6 1.7-.8 1.7-1.1 1.7-1.3 1.7 0 1.7 .2 1.7 .3 1.6 1.8 1.7 3 1.7 2.4 1.7 .1 1.7 .4 1.7-.6 1.7-1.8 1.7-1.8 1.7-1.2 1.7-1.7 1.7-1.1 1.6 0 1.7 .4 1.7 .8 1.7 1.1 1.7-1.5 1.7-.9 1.7-1.6 1.7 .4 1.7-.1 1.7 1.4 1.7 1 1.6 1.3 1.7-.9 1.7-1.6 1.7-1" stroke="#9467bd" stroke-width="0.5" fill="none" stroke-opacity="0.4" stroke-linejoin="round"/>
<path d="M174.5 487.2l1.7-1.5 1.7-1.2 1.7-1.2 1.7 1.4 1.7 1.8 1.6 .5 1.7-.3 1.7 1.9 1.7 .5 1.7 1.4 1.7 1.1 1.7 1.7 1.7 1.3 1.7 .3 1.7 .2 1.7 0 1.6 .6 1.7-.5 1.7 .7 1.7-.4 1.7-.2 1.7-.4 1.7-.2 1.7-.6 1.7 .5 1.7-.5 1.7 0 1.7-1 1.6 .6 1.7 1.1 1.7 2 1.7 1 1.7 1.7 1.7 .8 1.7 .6 1.7-.5 1.7-1.2 1.7-.2 1.7 .4 1.6 .8 1.7-.3 1.7 .1 1.7-1.8 1.7-2.1 1.7-2.8 1.7-.6 1.7-1.2 1.7 1.5 1.7 .4 1.7 2.7 1.6 .9 1.7 3 1.7 1.3 1.7 2.3 1.7 .9 1.7 0 1.7 .4 1.7-.3 1.7-1.3 1.7-.5 1.7-1.3 1.6 .5 1.7 .1 1.7 1.2 1.7 .6" stroke="#17becf" stroke-width="0.5" fill="none" stroke-opacity="0.4" stroke-linejoin="round"/>
<path d="M174.5 494.9l1.7-.1 1.7-.8 1.7-.9 1.7-.9 1.7 0 1.6 .4 1.7 .3 1.7 1.3 1.7 .5 1.7 1.4 1.7 1.4 1.7 2.5 1.7 1.9 1.7 .9 1.7 .2 1.7-2.2 1.6-3.1 1.7-3.1 1.7-.9 1.7 1.3 1.7 .4 1.7 2.3 1.7 2.1 1.7 1 1.7 .5 1.7 .5 1.7 .5 1.7-2 1.6-1.1 1.7-2.4 1.7 1.7 1.7 .8 1.7 1.7 1.7-.7 1.7-.3 1.7-1.4 1.7-3.9 1.7-2.6 1.7 .3 1.6 .6 1.7-1.6 1.7-.8 1.7-.2 1.7 1.9 1.7 1.7 1.7 2.6 1.7 2.5 1.7 1.3 1.7-1.6 1.7-1.6 1.6-2.5 1.7-1.3 1.7 .5 1.7 1.1 1.7 2.4 1.7 2.4 1.7 1.6 1.7-.8 1.7-1.6 1.7-.9 1.7 0 1.6-1 1.7-1.5 1.7-.5 1.7-.5" stroke="#ff7f0e" stroke-width="0.5" fill="none" stroke-opacity="0.4" stroke-linejoin="round"/>
<path d="M174.5 489.2l1.7-2.6 1.7-2.6 1.7-1.3 1.7-.9 1.7 .7 1.6 1.1 1.7 1.1 1.7 1.1 1.7 1.7 1.7 3.9 1.7 2.2 1.7 1.7 1.7-.1 1.7 .4 1.7 .6 1.7-.1 1.6 .7 1.7 .4 1.7 .4 1.7-.1 1.7-1 1.7-.9 1.7-1.7 1.7-1.5 1.7-.3 1.7 .5 1.7-.3 1.7 1.1 1.6 2.7 1.7 1.7 1.7 1.6 1.7 .6 1.7-.7 1.7-1.5 1.7-.9 1.7 .9 1.7 1.9 1.7 .9 1.7-.5 1.6 .5 1.7-1.7 1.7-2.8 1.7-2 1.7-1.5 1.7-1.7 1.7 .4 1.7 .2 1.7 .2 1.7 1.7 1.7 2.1 1.6 1 1.7 .5 1.7 .3 1.7-.3 1.7-.6 1.7-2.1 1.7-1 1.7-1.1 1.7-.3 1.7 .9 1.7 1.7 1.6 .8 1.7 .1 1.7-.1 1.7-.5" stroke="#ff7f0e" stroke-width="0.5" fill="none" stroke-opacity="0.4" stroke-linejoin="round"/>
<path d="M174.5 488.9l1.7-.9 1.7-.9 1.7-1 1.7 .4 1.7 1.5 1.6 2.1 1.7 2.2 1.7 1.4 1.7 2.2 1.7 .1 1.7-.5 1.7-1.5 1.7-.6 1.7-.9 1.7-.8 1.7 .8 1.6 .9 1.7 .2 1.7 .1 1.7-.5 1.7-.6 1.7-1.7 1.7-.4 1.7-1 1.7 1.9 1.7 1.8 1.7 2 1.7 1.6 1.6 .7 1.7 1 1.7 .4 1.7-1.5 1.7-1.5 1.7-1.6 1.7-1.8 1.7-1 1.7 1.6 1.7 .6 1.7 1.3 1.6 .2 1.7 .9 1.7-.4 1.7-.7 1.7-.5 1.7 .1 1.7 .9 1.7-.4 1.7 2.3 1.7 0 1.7 .7 1.6-.1 1.7 .1 1.7-.2 1.7-.7 1.7 .5 1.7-.5 1.7-.3 1.7-.2 1.7 0 1.7 .8 1.7-.3 1.6 1.2 1.7 1.7 1.7 1.6 1.7 .8" stroke="#8c564b" stroke-width="0.5" fill="none" stroke-opacity="0.4" stroke-linejoin="round"/>
<path d="M174.5 492.1l1.7-2.6 1.7-3.1 1.7-1.5 1.7-.4 1.7 1.1 1.6 1.8 1.7 2.6 1.7 2.8 1.7 1.1 1.7 .7 1.7 .7 1.7 1.1 1.7 1.2 1.7 .3 1.7 1 1.7-1.3 1.6-.8 1.7-.9 1.7-.5 1.7 0 1.7 .1 1.7 1.3 1.7 1.2 1.7 1.7 1.7 .9 1.7-.1 1.7 .1 1.7-.8 1.6 .3 1.7-1.3 1.7-.5 1.7-1.3 1.7-.1 1.7 0 1.7 1.1 1.7 1.4 1.7 1.8 1.7 1.1 1.7 .7 1.6 .3 1.7-.2 1.7-.7 1.7-1.6 1.7-1.8 1.7-.1 1.7-.7 1.7-.6 1.7 .2 1.7 .3 1.7-1.2 1.6-1.1 1.7-.5 1.7 .7 1.7 1.1 1.7 1.9 1.7 .6 1.7 .3 1.7-1.2 1.7-.5 1.7-.5 1.7-.8 1.6 .3 1.7 .8 1.7 1.9 1.7 1.3" stroke="#d62728" stroke-width="0.5" fill="none" stroke-opacity="0.4" stroke-linejoin="round"/>
<path d="M174.5 493.1l1.7-2.4 1.7-3 1.7-3.5 1.7-1.7 1.7-.7 1.6 .9 1.7 2 1.7 4.2 1.7 3.9 1.7 3 1.7 1.3 1.7 .2 1.7 2.2 1.7 .9 1.7 2.3 1.7 2.4 1.6 2.4 1.7 .1 1.7-.3 1.7-1.3 1.7-1.9 1.7-2.8 1.7-.6 1.7-1.2 1.7 1.9 1.7 .1 1.7 1.6 1.7 0 1.6-.4 1.7-1.4 1.7 .2 1.7-1.1 1.7-.6 1.7-1 1.7 0 1.7-1.1 1.7 .6 1.7-.5 1.7 .5 1.6 .1 1.7-1.1 1.7 .5 1.7-.2 1.7 .8 1.7 1.3 1.7 1.3 1.7-.1 1.7 .3 1.7 .8 1.7-.3 1.6 1.2 1.7 .4 1.7 1.3 1.7 .6 1.7-1.1 1.7-2 1.7-1.5 1.7-1.1 1.7-.8 1.7 .4 1.7 .9 1.6 1.1 1.7 1.3 1.7 .6 1.7 1.1" stroke="#d62728" stroke-width="0.5" fill="none" stroke-opacity="0.4" stroke-linejoin="round"/>
<path d="M174.5 493.1l1.7-1.2 1.7-1.7 1.7-.5 1.7 1.2 1.7 2.4 1.6 1.9 1.7 3.7 1.7 2.3 1.7 1.1 1.7 1 1.7 1.7 1.7 .4 1.7 .7 1.7-1.3 1.7-1 1.7-.5 1.6-.7 1.7-1.2 1.7 .9 1.7-.3 1.7-.1 1.7 1.8 1.7 .9 1.7 .2 1.7-1 1.7-2 1.7-1.6 1.7-1.5 1.6-.4 1.7 .6 1.7 2.3 1.7 .4 1.7 .5 1.7 .6 1.7 0 1.7 .6 1.7-1.2 1.7-.2 1.7-.1 1.6 .7 1.7 .6 1.7 1 1.7-.5 1.7-.5 1.7-1.6 1.7-.1 1.7 0 1.7 .4 1.7-.1 1.7-.5 1.6-.6 1.7-.7 1.7 .1 1.7 .5 1.7 .8 1.7 .1 1.7 .3 1.7 .1 1.7-.8 1.7-.9 1.7-1.2 1.6-.3 1.7 .5 1.7 1.5 1.7 1" stroke="#ff7f0e" stroke-width="0.5" fill="none" stroke-opacity="0.4" stroke-linejoin="round"/>
<path d="M174.5 470.3l1.7-.9 1.7 .2 1.7 1.6 1.7 2.1 1.7 1.1 1.6 1.5 1.7 .9 1.7 .8 1.7 .8 1.7-1.5 1.7 .8 1.7 1 1.7 0 1.7-3.3 1.7 1.5 1.7 .6 1.6 5.8 1.7 3.6 1.7 3.8 1.7 0 1.7-1.2 1.7-8.9 1.7-7.9 1.7-8.2 1.7-7.1 1.7-6.3 1.7-3.3 1.7 .7 1.6 5.9 1.7 3.2 1.7 6.1 1.7 7.4 1.7 6 1.7 3.9 1.7 4.9 1.7 2.1 1.7 3.9 1.7 0 1.7-3.6 1.6-2.7 1.7-1.9 1.7-7.5 1.7-4.2 1.7-3.9 1.7-2 1.7 3.8 1.7 5.6 1.7 7.4 1.7 9.2 1.7 9.4 1.6 3.4 1.7 .8 1.7-1.6 1.7-3.3 1.7-2 1.7-2.1 1.7-2.9 1.7-.6 1.7-.6 1.7-.9 1.7 .9 1.6 2.1 1.7 4.4 1.7 4.6 1.7 4.2" stroke="#ff7f0e" stroke-width="0.5" fill="none" stroke-opacity="0.4" stroke-linejoin="round"/>
<path d="M174.5 480.1l1.7-.9 1.7-.8 1.7 1.2 1.7 2.2 1.7 4 1.6 3 1.7 3.5 1.7 1.4 1.7 1.8 1.7 .2 1.7 1.5 1.7 1.2 1.7 2.2 1.7-.8 1.7-.6 1.7-1.4 1.6 .7 1.7 .2 1.7 .5 1.7 .1 1.7-1.1 1.7-2.1 1.7-.4 1.7 1.2 1.7 3.2 1.7 2.6 1.7 3.4 1.7 .4 1.6-.9 1.7-4.1 1.7-2.4 1.7-2.5 1.7-1.6 1.7-.2 1.7 .1 1.7 1.7 1.7 0 1.7 .4 1.7-.9 1.6 .1 1.7-.8 1.7-.1 1.7 2.7 1.7 .9 1.7 1.5 1.7 .8 1.7 .7 1.7 .1 1.7-1.9 1.7-.7 1.6-1.3 1.7-.6 1.7-.8 1.7 .4 1.7-.4 1.7-1.5 1.7-1.7 1.7-.2 1.7 1.2 1.7 2.5 1.7 2 1.6 2.8 1.7 0 1.7-.1 1.7-.6" stroke="#9467bd" stroke-width="0.5" fill="none" stroke-opacity="0.4" stroke-linejoin="round"/>
<path d="M174.5 485.1l1.7-.7 1.7 .9 1.7 1 1.7 1 1.7 .7 1.6 1.8 1.7 2 1.7 2.3 1.7 1.6 1.7 2 1.7 .7 1.7 .1 1.7 0 1.7-.6 1.7-.4 1.7-.4 1.6 .6 1.7 .2 1.7 .6 1.7-.6 1.7-.5 1.7-.6 1.7 .3 1.7 0 1.7-.3 1.7-.9 1.7 .5 1.7 .1 1.6 .9 1.7 .5 1.7 1.2 1.7-.2 1.7 .4 1.7 .4 1.7-.5 1.7 .2 1.7-.4 1.7 .2 1.7-.3 1.6 0 1.7-.4 1.7 .3 1.7-.1 1.7 .1 1.7 .5 1.7-1.2 1.7-.1 1.7 .1 1.7-.9 1.7-.3 1.6 .1 1.7 .4 1.7-.6 1.7 .5 1.7-.5 1.7-.1 1.7-.4 1.7-.8 1.7 1.4 1.7 .3 1.7 0 1.6-.6 1.7-.2 1.7-.8 1.7-.8" stroke="#8c564b" stroke-width="0.5" fill="none" stroke-opacity="0.4" stroke-linejoin="round"/>
<path d="M174.5 487.5l1.7-2.6 1.7-.8 1.7 .9 1.7 1.6 1.7 2.4 1.6 2.2 1.7 3 1.7 1.7 1.7 1.4 1.7 .3 1.7 1.8 1.7 .5 1.7 .5 1.7-1.9 1.7-2 1.7-2.4 1.6 .4 1.7 1.3 1.7 2.1 1.7-.2 1.7-.1 1.7-.5 1.7-1.5 1.7-1 1.7-.2 1.7 1.8 1.7-.9 1.7-1 1.6 1.2 1.7 1.4 1.7 2.1 1.7 .2 1.7 1.8 1.7-1.1 1.7 .5 1.7-2.1 1.7 .1 1.7 .1 1.7 .7 1.6 .3 1.7-.6 1.7-.2 1.7 .9 1.7 2.5 1.7 1.7 1.7 .5 1.7-.8 1.7-2.8 1.7-1.8 1.7-1.1 1.6 0 1.7-1.1 1.7 .3 1.7 1.9 1.7 .6 1.7-.9 1.7-.5 1.7 2.1 1.7-.6 1.7 .2 1.7-1.5 1.6-.6 1.7-3.7 1.7-2.2 1.7-1.5" stroke="#9467bd" stroke-width="0.5" fill="none" stroke-opacity="0.4" stroke-linejoin="round"/>
<path d="M174.5 483l1.7-.8 1.7 1.1 1.7 .9 1.7 1.8 1.7 1 1.6 2.5 1.7 2.8 1.7 1.9 1.7 2.4 1.7 2.3 1.7 1 1.7 .2 1.7-.9 1.7-.2 1.7 .2 1.7 1.2 1.6 .3 1.7 1.4 1.7 .4 1.7 0 1.7 .5 1.7-.8 1.7-1 1.7-.1 1.7-.9 1.7 .6 1.7 1.6 1.7 1.5 1.6-.3 1.7 .1 1.7-.1 1.7-.1 1.7 .4 1.7-.5 1.7-.4 1.7-1.7 1.7-2.9 1.7-2 1.7-.9 1.6-.2 1.7-.5 1.7 1.1 1.7 .4 1.7 .3 1.7 0 1.7 .3 1.7-.8 1.7-.5 1.7-.3 1.7 1 1.6 1.8 1.7 1.2 1.7 1.3 1.7 .2 1.7-1.2 1.7-1.8 1.7-.8 1.7-.6 1.7 .2 1.7-.2 1.7-.6 1.6-.3 1.7 .6 1.7 .9 1.7 1.1" stroke="#ff7f0e" stroke-width="0.5" fill="none" stroke-opacity="0.4" stroke-linejoin="round"/>
<path d="M174.5 475.3l1.7-2.2 1.7-1.3 1.7 .1 1.7 2 1.7 3.2 1.6 4.1 1.7 4.1 1.7 3.3 1.7 2.2 1.7 1.4 1.7 1.5 1.7 1.8 1.7 2.1 1.7-.2 1.7 .1 1.7-1.1 1.6-.6 1.7-1.5 1.7-1.3 1.7-1 1.7-.3 1.7 .2 1.7-.1 1.7 .4 1.7 1.6 1.7 1.5 1.7 .8 1.7-.3 1.6 .1 1.7 1.1 1.7 .5 1.7 1 1.7 1.3 1.7 2.1 1.7-.3 1.7-2.7 1.7-2.4 1.7-.5 1.7 1.2 1.6 .5 1.7 .2 1.7 .9 1.7-1 1.7-.7 1.7-1 1.7-1 1.7-.8 1.7-.4 1.7 .4 1.7 .1 1.6 .2 1.7 .9 1.7 .1 1.7 .9 1.7-.4 1.7 1.1 1.7-.1 1.7-.2 1.7-.1 1.7 0 1.7-1.2 1.6-1.4 1.7-1.1 1.7-1.3 1.7-.2" stroke="#d62728" stroke-width="0.5" fill="none" stroke-opacity="0.4" stroke-linejoin="round"/>
<path d="M174.5 487.3l1.7-1.2 1.7-.7 1.7 .3 1.7 1.7 1.7 1.9 1.6 4.1 1.7 4.3 1.7 2.7 1.7 1.5 1.7 .1 1.7-.4 1.7-2.2 1.7-1.3 1.7-.7 1.7 1.4 1.7 .6 1.6 2.1 1.7 .2 1.7-1.1 1.7-2.4 1.7-1.6 1.7-.6 1.7 1.5 1.7 2.2 1.7 .5 1.7-.7 1.7-1.1 1.7 0 1.6 1.4 1.7 .5 1.7 .5 1.7-2 1.7-1.9 1.7-3.2 1.7 0 1.7-.9 1.7 .9 1.7-.6 1.7 .1 1.6-.2 1.7 .3 1.7 .3 1.7 .7 1.7 1.8 1.7 1 1.7 .9 1.7-.3 1.7-.8 1.7-.4 1.7 .2 1.6 1.1 1.7 1.4 1.7-.2 1.7-.3 1.7-1.4 1.7-.7 1.7-2.2 1.7-1 1.7-.6 1.7-.4 1.7-1 1.6 .4 1.7 1.5 1.7 1.4 1.7 1.3" stroke="#ff7f0e" stroke-width="0.5" fill="none" stroke-opacity="0.4" stroke-linejoin="round"/>
<path d="M174.5 483.4l1.7-2.7 1.7-1.3 1.7-.3 1.7 .5 1.7 1.5 1.6 2.2 1.7 3.4 1.7 .7 1.7 1.2 1.7 2.7 1.7 4 1.7 4.1 1.7 3 1.7 2.7 1.7 .5 1.7-1.7 1.6-2.5 1.7-2.1 1.7-1.4 1.7-1.5 1.7 .7 1.7 1.5 1.7 .7 1.7-.2 1.7-1.1 1.7 .1 1.7 .6 1.7 1.4 1.6 1.7 1.7 .9 1.7-.5 1.7-1.3 1.7-1.4 1.7-.8 1.7-.3 1.7 .8 1.7-.2 1.7-1.2 1.7-1.7 1.6-.8 1.7-.4 1.7 1.4 1.7 1.8 1.7 .8 1.7 .6 1.7 .8 1.7 .5 1.7 .9 1.7-.8 1.7-.3 1.6 .3 1.7 .3 1.7 .6 1.7 1.5 1.7 1.2 1.7-.3 1.7 .6 1.7 .3 1.7 .9 1.7 1 1.7 .5 1.6 1.1 1.7 .5 1.7 .8 1.7 .4" stroke="#17becf" stroke-width="0.5" fill="none" stroke-opacity="0.4" stroke-linejoin="round"/>
<path d="M174.5 482.1l1.7-2.4 1.7-1.2 1.7-.4 1.7 1.7 1.7 2.7 1.6 3 1.7 2.9 1.7 2.3 1.7 2.8 1.7 2.9 1.7 1.4 1.7 .8 1.7-.3 1.7-1.7 1.7-.9 1.7-.6 1.6 .3 1.7 .5 1.7 1 1.7 .4 1.7 .6 1.7 .1 1.7-.1 1.7 .4 1.7-.5 1.7 1.2 1.7 .7 1.7 .6 1.6 1.2 1.7 .3 1.7 .6 1.7-.1 1.7-.6 1.7 .5 1.7-.3 1.7-.9 1.7-.8 1.7-.3 1.7-1.9 1.6-.2 1.7 .2 1.7-.1 1.7-.2 1.7-.6 1.7-.3 1.7 .5 1.7-1 1.7 .7 1.7 1 1.7 .6 1.6 .9 1.7 1.2 1.7-.1 1.7 .1 1.7-1.2 1.7-1.1 1.7-.7 1.7-.1 1.7-1 1.7 0 1.7 .3 1.6 0 1.7 .2 1.7-.3 1.7 .2" stroke="#e377c2" stroke-width="0.5" fill="none" stroke-opacity="0.4" stroke-linejoin="round"/>
<path d="M174.5 482.7l1.7-4.5 1.7-4.5 1.7-1.8 1.7 1 1.7 3.6 1.6 3.3 1.7 2.9 1.7 3.3 1.7 4.1 1.7 3.2 1.7 3.4 1.7 1.6 1.7 .4 1.7-.8 1.7-.8 1.7-.2 1.6-.2 1.7-1.6 1.7-1.5 1.7 1.3 1.7 1.9 1.7 2.5 1.7 3.3 1.7 2.2 1.7 1.7 1.7-1 1.7-1.5 1.7-1.3 1.6 .5 1.7 .9 1.7 1.2 1.7 .5 1.7-.7 1.7-.3 1.7-1.3 1.7-1.6 1.7-.3 1.7-.9 1.7-1.4 1.6-1.2 1.7 .3 1.7-.4 1.7-.3 1.7 .2 1.7-1.3 1.7-.4 1.7-.7 1.7 .9 1.7 2.5 1.7 1.8 1.6 1 1.7 1.2 1.7-.2 1.7-1.7 1.7-2.3 1.7-1.3 1.7-1.4 1.7 0 1.7 1.5 1.7 3.8 1.7 2.5 1.6 1.6 1.7 .3 1.7 .1 1.7-.1" stroke="#ff7f0e" stroke-width="0.5" fill="none" stroke-opacity="0.4" stroke-linejoin="round"/>
<path d="M174.5 486.1l1.7-.2 1.7 .2 1.7 2.5 1.7 5.3 1.7 3.6 1.6 4.3 1.7 4.8 1.7 .4 1.7-.7 1.7-1.2 1.7-.9 1.7-2.8 1.7 .8 1.7-1.3 1.7 2.5 1.7 0 1.6 .8 1.7-.2 1.7 2.3 1.7-.7 1.7-3.6 1.7-2.4 1.7-3 1.7-4.3 1.7-5 1.7-3.8 1.7-4.2 1.7-.8 1.6 .4 1.7 3 1.7 4.6 1.7 10.4 1.7 7.9 1.7 9.5 1.7 5.2 1.7 3.5 1.7-4.3 1.7-6.4 1.7-8.9 1.6-3.1 1.7-2.8 1.7 1.6 1.7 1.5 1.7 4 1.7 .9 1.7 .3 1.7-1.6 1.7-1.3 1.7-3.9 1.7-5.7 1.6-3.7 1.7-1.3 1.7-.8 1.7-.4 1.7 4.3 1.7 5.9 1.7 3.3 1.7 3.4 1.7 3.9 1.7 2.1 1.7 1.7 1.6-.8 1.7-1 1.7-.8 1.7-1.4" stroke="#8c564b" stroke-width="0.5" fill="none" stroke-opacity="0.4" stroke-linejoin="round"/>
<path d="M174.5 470.4l1.7-1.7 1.7-1.2 1.7 .3 1.7 2.6 1.7 3.5 1.6 4.3 1.7 4.6 1.7 5.3 1.7 4.1 1.7 2.9 1.7 .8 1.7 .9 1.7-1.2 1.7 .3 1.7 1.1 1.7 2.1 1.6-.3 1.7-1.1 1.7-1.1 1.7-1.1 1.7-.7 1.7 .1 1.7 .9 1.7 .2 1.7-.5 1.7 0 1.7-.6 1.7-1.1 1.6-.4 1.7 1.1 1.7 1.1 1.7 1.4 1.7 1 1.7 .2 1.7-.4 1.7 .2 1.7-.8 1.7-.8 1.7-.9 1.6-1.6 1.7-1.1 1.7 .2 1.7 .9 1.7 .7 1.7-.2 1.7-.4 1.7-.4 1.7-.2 1.7 0 1.7-1.4 1.6-1.2 1.7-.5 1.7 .5 1.7 1.5 1.7 1.8 1.7 2.2 1.7 1 1.7 1.1 1.7-1.3 1.7-.7 1.7-.4 1.6 1.2 1.7 1.5 1.7 1.8 1.7-.5" stroke="#ff7f0e" stroke-width="0.5" fill="none" stroke-opacity="0.4" stroke-linejoin="round"/>
<path d="M174.5 483.9l1.7-2.8 1.7-2.8 1.7-2.1 1.7 .5 1.7 2 1.6 2.9 1.7 2.3 1.7 3.4 1.7 .4 1.7-.5 1.7-.2 1.7 1 1.7 3.2 1.7 2.7 1.7 2.6 1.7 1.2 1.6 1.8 1.7-.4 1.7-.2 1.7-1.9 1.7-.2 1.7 .6 1.7 1.1 1.7 .4 1.7 1.4 1.7 .2 1.7-.7 1.7-1 1.6-.4 1.7-.4 1.7-.4 1.7-.3 1.7 1.4 1.7 1 1.7 .2 1.7-.3 1.7 .5 1.7-1.6 1.7-1.1 1.6-.4 1.7 2.3 1.7 1 1.7 1.4 1.7-.2 1.7-1 1.7-2.9 1.7-2.2 1.7-1.4 1.7 .1 1.7 .9 1.6 1.4 1.7 1.5 1.7 1 1.7-1 1.7 .8 1.7 0 1.7 1.1 1.7-.9 1.7-.4 1.7-1.9 1.7 .6 1.6 .3 1.7 1 1.7-.4 1.7-1.5" stroke="#7f7f7f" stroke-width="0.5" fill="none" stroke-opacity="0.4" stroke-linejoin="round"/>
<path d="M174.5 481.9l1.7 1.3 1.7 2.5 1.7 2.7 1.7 3.5 1.7 2.8 1.6 2.6 1.7 .7 1.7 1.9 1.7-.2 1.7-.1 1.7-1.4 1.7-.4 1.7-1.6 1.7 1.3 1.7 2.6 1.7 3.8 1.6 1.8 1.7 .1 1.7-1.8 1.7-2.6 1.7-2 1.7-.7 1.7-.7 1.7 1.7 1.7 1.6 1.7 .7 1.7 1 1.7 2.9 1.6 1.7 1.7-.3 1.7-1.8 1.7-2.4 1.7-1.6 1.7-1 1.7-.4 1.7 0 1.7 .4 1.7 .8 1.7 0 1.6 1.2 1.7 2 1.7 .4 1.7-2.1 1.7-.7 1.7-1.3 1.7-1.1 1.7-.6 1.7 .8 1.7-.6 1.7-1.4 1.6-.9 1.7 .9 1.7 2 1.7-.3 1.7 .9 1.7 .8 1.7-.2 1.7-2.5 1.7 .6 1.7 .6 1.7 2.6 1.6 2.6 1.7 4.6 1.7 4.6 1.7 2.9" stroke="#9467bd" stroke-width="0.5" fill="none" stroke-opacity="0.4" stroke-linejoin="round"/>
<path d="M174.5 475.5l1.7-3.7 1.7-3.2 1.7 .4 1.7 4.8 1.7 5.8 1.6 6.8 1.7 5.1 1.7 3.9 1.7 0 1.7-.1 1.7-1.2 1.7 1.3 1.7 .7 1.7 .2 1.7 .2 1.7-.8 1.6-1.7 1.7-.3 1.7 .4 1.7 1.9 1.7 2 1.7 .9 1.7 .9 1.7-1.1 1.7 .4 1.7 1.1 1.7 1.7 1.7-.6 1.6-1.4 1.7-2.6 1.7-1.2 1.7-1.7 1.7-2.5 1.7-1.5 1.7-.2 1.7-.9 1.7 .3 1.7 .7 1.7 4.2 1.6 .6 1.7 3.1 1.7-.4 1.7 1.3 1.7-2 1.7 1.3 1.7-.1 1.7 2.2 1.7 .5 1.7 1.3 1.7 .1 1.6 1.6 1.7-1.8 1.7-2.1 1.7-2.6 1.7-.9 1.7-2.2 1.7-2.1 1.7 .1 1.7 1.4 1.7 1.8 1.7 2.4 1.6 3 1.7 1.4 1.7-1.5 1.7-1.6" stroke="#8c564b" stroke-width="0.5" fill="none" stroke-opacity="0.4" stroke-linejoin="round"/>
<path d="M174.5 483.6l1.7-.1 1.7-.3 1.7-.2 1.7 0 1.7 1 1.6 1.6 1.7 2.2 1.7 .6 1.7 .6 1.7-.1 1.7 2.1 1.7 1.1 1.7 2.5 1.7 2.3 1.7 .4 1.7-.3 1.6-.9 1.7-.7 1.7-1 1.7-.5 1.7-.3 1.7 .2 1.7 0 1.7 0 1.7 .6 1.7 1.2 1.7-.3 1.7-.5 1.6-.3 1.7-.6 1.7-1.2 1.7-.3 1.7-.3 1.7-1 1.7 .5 1.7 1.1 1.7 1.7 1.7 2.5 1.7-.2 1.6-1.3 1.7-1.7 1.7-.2 1.7-.1 1.7 1.2 1.7 .6 1.7 1.7 1.7-.7 1.7-.1 1.7 1.5 1.7 1.6 1.6-.3 1.7 .7 1.7-.2 1.7-.9 1.7-1.5 1.7-.7 1.7 .4 1.7-1.3 1.7 .8 1.7 .4 1.7 .1 1.6-1.8 1.7-.6 1.7-1.4 1.7-1.8" stroke="#bcbd22" stroke-width="0.5" fill="none" stroke-opacity="0.4" stroke-linejoin="round"/>
<path d="M174.5 475.5l1.7-4.4 1.7-3.4 1.7-1.1 1.7 1.7 1.7 2.5 1.6 4 1.7 4 1.7 4.1 1.7 3.2 1.7 2.9 1.7 3.9 1.7 4.1 1.7 2.9 1.7 1.9 1.7 1.6 1.7 1.4 1.6 1 1.7 1.2 1.7 .2 1.7 1.1 1.7-2.1 1.7-2.6 1.7-4.5 1.7-2.5 1.7-2.7 1.7 1.6 1.7 1.1 1.7 2.5 1.6 .7 1.7 .3 1.7 .6 1.7 1.4 1.7 1.3 1.7 1.6 1.7-1.4 1.7-.9 1.7-1.9 1.7-.6 1.7 0 1.6 1.8 1.7 .5 1.7-.1 1.7-.9 1.7 .4 1.7-.6 1.7-2.2 1.7-3.8 1.7-4.1 1.7-2.2 1.7-1.9 1.6 1.6 1.7 1.4 1.7 4.9 1.7 1.2 1.7 1.3 1.7 .1 1.7 .1 1.7-1.1 1.7 .4 1.7 .2 1.7 1.1 1.6 1.4 1.7 1.3 1.7 .1 1.7 0" stroke="#bcbd22" stroke-width="0.5" fill="none" stroke-opacity="0.4" stroke-linejoin="round"/>
<path d="M174.5 476l1.7-1.8 1.7 .2 1.7 1.1 1.7 3.2 1.7 4.1 1.6 4.3 1.7 3 1.7 2.5 1.7 .8 1.7 1.2 1.7 .8 1.7 1.3 1.7-.1 1.7 .4 1.7-.1 1.7-1.6 1.6-2.2 1.7-.7 1.7 .9 1.7 1.9 1.7 .9 1.7 1.3 1.7 .5 1.7 1.4 1.7 .8 1.7 1.3 1.7 1.4 1.7 .5 1.6-.1 1.7-1.3 1.7-1 1.7-.4 1.7-.2 1.7-.1 1.7 .2 1.7 .3 1.7-1.1 1.7-1.6 1.7-.3 1.6 .3 1.7 .4 1.7 .4 1.7-.2 1.7-1.2 1.7-.7 1.7-.8 1.7-1.3 1.7-1 1.7-.5 1.7 .9 1.6 1.7 1.7 .7 1.7 .5 1.7 .9 1.7-.6 1.7-1.8 1.7-.3 1.7-1.1 1.7 1.3 1.7 1.5 1.7 2 1.6 1.4 1.7 1.9 1.7 .3 1.7 1" stroke="#ff7f0e" stroke-width="0.5" fill="none" stroke-opacity="0.4" stroke-linejoin="round"/>
<path d="M174.5 474.9l1.7-.9 1.7 1.4 1.7 1.1 1.7 1 1.7 .8 1.6 .8 1.7 1.5 1.7 3.2 1.7 2.3 1.7 1.6 1.7 3 1.7 .9 1.7 .8 1.7-.7 1.7-.6 1.7-.6 1.6 .9 1.7 1.2 1.7 1.2 1.7-.7 1.7-1.2 1.7-1.3 1.7-.6 1.7-.5 1.7 1.6 1.7 1.9 1.7 3.2 1.7 1.3 1.6 .9 1.7-1.3 1.7-1.6 1.7-.6 1.7-.5 1.7 2.1 1.7 2.1 1.7 1.8 1.7 .5 1.7-.2 1.7-1.5 1.6-2.2 1.7 1 1.7-1.1 1.7 .6 1.7-.2 1.7 .7 1.7-1.9 1.7-2.2 1.7-2.2 1.7 .3 1.7 1.5 1.6 2.4 1.7 3.5 1.7 1.9 1.7-.5 1.7-1.3 1.7-.9 1.7-1.1 1.7-.5 1.7 .4 1.7 .5 1.7 0 1.6-1.3 1.7-1.7 1.7-.8 1.7-.7" stroke="#7f7f7f" stroke-width="0.5" fill="none" stroke-opacity="0.4" stroke-linejoin="round"/>
<path d="M174.5 472.5l1.7-1.5 1.7 .2 1.7 2.1 1.7 4.2 1.7 3.3 1.6 3.6 1.7 3.2 1.7 1.4 1.7 .8 1.7 1.2 1.7 2.9 1.7 1.3 1.7 1.4 1.7-.3 1.7-.3 1.7-1.3 1.6 1.6 1.7 .6 1.7-.3 1.7-1.3 1.7-1.4 1.7-1 1.7-1.2 1.7 1.3 1.7 .6 1.7 2.8 1.7 1.4 1.7 2.8 1.6 2.4 1.7 .6 1.7-.8 1.7-1.5 1.7-1.2 1.7 0 1.7 1.7 1.7 2.8 1.7 2 1.7-.4 1.7-.8 1.6-2.3 1.7-1.4 1.7-2.3 1.7 0 1.7-.7 1.7 .3 1.7 .4 1.7 .8 1.7-.3 1.7-1.7 1.7-.2 1.6 .6 1.7 1.2 1.7 .9 1.7 .8 1.7-.2 1.7-1.4 1.7-2.5 1.7-1.9 1.7-.9 1.7 .1 1.7 1.9 1.6 2.1 1.7 1.7 1.7 .8 1.7-.6" stroke="#17becf" stroke-width="0.5" fill="none" stroke-opacity="0.4" stroke-linejoin="round"/>
<path d="M174.5 483l1.7-3.8 1.7-1.8 1.7-.6 1.7 2.4 1.7 1.1 1.6 4 1.7 4 1.7 2.4 1.7 2 1.7 3.4 1.7 .7 1.7-1.2 1.7-1.2 1.7-1.7 1.7-2.8 1.7-1.2 1.6-4.2 1.7-3.3 1.7-.3 1.7 1.9 1.7 3 1.7 5.5 1.7 3.5 1.7 4 1.7 2 1.7-1.4 1.7-4 1.7-4.8 1.6-5.4 1.7-2.5 1.7 1.3 1.7 2.1 1.7 3.1 1.7 2.8 1.7-.1 1.7 1.4 1.7 .6 1.7-1.5 1.7-.7 1.6 1.4 1.7 .9 1.7 1.3 1.7 1.7 1.7 .2 1.7-1.7 1.7-2.3 1.7-1.9 1.7 .5 1.7 3.6 1.7 1.9 1.6 2.8 1.7 6.4 1.7 4.1 1.7 2.7 1.7 1.4 1.7-1.3 1.7-1.2 1.7-3 1.7-4.8 1.7-5.1 1.7-4.2 1.6-5.5 1.7-1.8 1.7 .5 1.7 1.4" stroke="#7f7f7f" stroke-width="0.5" fill="none" stroke-opacity="0.4" stroke-linejoin="round"/>
<path d="M174.5 488.1l1.7-2.1 1.7-.9 1.7-.2 1.7-.8 1.7 1.8 1.6 2.8 1.7 2.9 1.7 2.8 1.7 4.3 1.7 3.4 1.7 3.5 1.7 1.3 1.7-1.4 1.7-2.3 1.7-3.6 1.7-1.7 1.6 0 1.7 .2 1.7 0 1.7 1.3 1.7-1.3 1.7-1.5 1.7-2.6 1.7-1 1.7-.7 1.7 .8 1.7 1 1.7 3 1.6 2.8 1.7 2.4 1.7 1.9 1.7 1.5 1.7-1.3 1.7-1.1 1.7-2 1.7-.5 1.7-.4 1.7 1.1 1.7-.1 1.6 0 1.7-1.5 1.7-.8 1.7-.6 1.7 .3 1.7 .3 1.7 .9 1.7 2.1 1.7 .2 1.7-1.2 1.7-1.1 1.6-1.3 1.7-1.3 1.7 .3 1.7 1.5 1.7 1.8 1.7 1.3 1.7 .8 1.7-.3 1.7-1 1.7-2.3 1.7-1.6 1.6-.1 1.7-.1 1.7 1.8 1.7 2.1" stroke="#bcbd22" stroke-width="0.5" fill="none" stroke-opacity="0.4" stroke-linejoin="round"/>
<path d="M174.5 477.4l1.7-1.8 1.7-.3 1.7 .5 1.7 1.3 1.7 1.2 1.6 2.6 1.7 2.1 1.7 1.9 1.7 2.1 1.7 2.8 1.7 1 1.7 .3 1.7 1.1 1.7 .8 1.7 .8 1.7 .7 1.6 .6 1.7 .3 1.7-1.2 1.7-.8 1.7-1.3 1.7 .9 1.7 .4 1.7 1.7 1.7 1.9 1.7 .4 1.7 .6 1.7-1.2 1.6-2 1.7-1.9 1.7-.6 1.7 .3 1.7-.5 1.7 .9 1.7 .1 1.7 .2 1.7-.1 1.7 .1 1.7 1.2 1.6-.1 1.7 0 1.7-.8 1.7-1.3 1.7-1.3 1.7-.5 1.7 .6 1.7 1.5 1.7 .4 1.7 0 1.7-.1 1.6 .3 1.7-.8 1.7 .1 1.7-.2 1.7 .6 1.7 .7 1.7 .3 1.7 .4 1.7 .4 1.7 .6 1.7 .6 1.6 .2 1.7 0 1.7-.5 1.7-.3" stroke="#e377c2" stroke-width="0.5" fill="none" stroke-opacity="0.4" stroke-linejoin="round"/>
<path d="M174.5 474.1l1.7-2.7 1.7-1.5 1.7 .9 1.7 2.1 1.7 3.7 1.6 1.8 1.7 3.8 1.7 3.2 1.7 3.3 1.7 3.2 1.7 2.2 1.7 1.3 1.7 .7 1.7-.3 1.7 1.2 1.7 1.7 1.6 1.7 1.7 0 1.7-1.7 1.7-2.3 1.7-2.9 1.7-2.2 1.7-.6 1.7 2.5 1.7 4.1 1.7 2.9 1.7 2.6 1.7-.4 1.6-2 1.7-2.7 1.7-.9 1.7 .4 1.7 .1 1.7 0 1.7-.1 1.7 .2 1.7-.9 1.7-.8 1.7-.2 1.6 1.1 1.7 2.2 1.7 2.7 1.7 1.2 1.7 .8 1.7 .8 1.7-1.7 1.7-3 1.7-2.4 1.7-1.8 1.7-.8 1.6-.3 1.7 2.5 1.7 3 1.7 .9 1.7-1.6 1.7-1.3 1.7-1.3 1.7-.8 1.7-.8 1.7 1.1 1.7 1.4 1.6 1.1 1.7 1.6 1.7 1.3 1.7 .6" stroke="#17becf" stroke-width="0.5" fill="none" stroke-opacity="0.4" stroke-linejoin="round"/>
<path d="M174.5 482.8l1.7-2.6 1.7-3.8 1.7-.9 1.7-.7 1.7 1.8 1.6 1 1.7 3.6 1.7 3.6 1.7 5.4 1.7 3.6 1.7 1.3 1.7-1.5 1.7-1.9 1.7-.9 1.7 .5 1.7 3 1.6 1.7 1.7 .3 1.7-1.5 1.7-.7 1.7-1.1 1.7-.4 1.7 1.4 1.7 2.8 1.7 2.1 1.7 1.3 1.7 .2 1.7-.9 1.6-3 1.7-1.4 1.7 .1 1.7 2.7 1.7 2.5 1.7 2.1 1.7 .9 1.7 .5 1.7-2 1.7-2 1.7-2 1.6-.4 1.7 .8 1.7 .3 1.7 1.3 1.7 0 1.7-.8 1.7-2.2 1.7-1.2 1.7-2.8 1.7-2.8 1.7-2 1.6 .6 1.7 .9 1.7 .8 1.7 1.1 1.7 2.4 1.7 3.5 1.7 2.5 1.7 3 1.7 .5 1.7 .4 1.7-1.5 1.6 1.5 1.7 1.1 1.7 2.9 1.7 1.7" stroke="#d62728" stroke-width="0.5" fill="none" stroke-opacity="0.4" stroke-linejoin="round"/>
<path d="M174.5 480.2l1.7-.5 1.7 .5 1.7 1.9 1.7 1.8 1.7 2.2 1.6 2.2 1.7 2.6 1.7 2.6 1.7 1.9 1.7 1.2 1.7 .1 1.7-.1 1.7 .5 1.7 1.2 1.7 1.5 1.7 .6 1.6 .6 1.7-.1 1.7 .5 1.7 .4 1.7 .2 1.7-1.1 1.7 .2 1.7-.6 1.7 .1 1.7 .4 1.7 .9 1.7-.6 1.6-.1 1.7-1.1 1.7-.6 1.7 0 1.7-.2 1.7 .4 1.7-.3 1.7 0 1.7 .2 1.7-.4 1.7-.2 1.6 .8 1.7 1.6 1.7 .6 1.7-.1 1.7-.6 1.7 .4 1.7-.6 1.7-1 1.7 .2 1.7 .1 1.7 .4 1.6 .2 1.7-.5 1.7-.3 1.7-.8 1.7-.8 1.7-.8 1.7 .9 1.7 1.6 1.7 1.3 1.7 .7 1.7-.5 1.6 1.3 1.7-.2 1.7 1.3 1.7 1.2" stroke="#1f77b4" stroke-width="0.5" fill="none" stroke-opacity="0.4" stroke-linejoin="round"/>
<path d="M174.5 477.4l1.7-1.4 1.7-.8 1.7 .1 1.7 .4 1.7 2 1.6 2.7 1.7 3.5 1.7 3.5 1.7 3.1 1.7 1.1 1.7 1.6 1.7 1.6 1.7 .6 1.7-.6 1.7-.6 1.7-.4 1.6-.1 1.7-.6 1.7-.1 1.7 .6 1.7-.5 1.7 .6 1.7 1.6 1.7 .7 1.7 1.3 1.7 .7 1.7 .5 1.7 .2 1.6-1 1.7 .1 1.7-1.1 1.7-.6 1.7-1.1 1.7 1 1.7 1.1 1.7 .7 1.7 1.4 1.7-.3 1.7-.1 1.6-1 1.7-1.5 1.7-1.3 1.7-.2 1.7 .6 1.7 .4 1.7-.3 1.7 1 1.7 .1 1.7 .6 1.7-.2 1.6 .2 1.7-1.2 1.7-1.5 1.7-1.4 1.7 1.4 1.7 .8 1.7 .8 1.7 0 1.7 .5 1.7-.9 1.7-.3 1.6-.2 1.7 .2 1.7 .2 1.7 .1" stroke="#ff7f0e" stroke-width="0.5" fill="none" stroke-opacity="0.4" stroke-linejoin="round"/>
<path d="M174.5 488.4l1.7-3 1.7-2.8 1.7-.7 1.7 2.5 1.7 3.9 1.6 2.8 1.7 2.5 1.7 .3 1.7 1.5 1.7 .1 1.7 1.7 1.7 2.7 1.7 2.6 1.7 1.8 1.7 .8 1.7 1.3 1.6 .5 1.7-.1 1.7-.8 1.7-.5 1.7-1.2 1.7-.3 1.7-.5 1.7 .6 1.7 .9 1.7 .5 1.7-.9 1.7-.3 1.6-.6 1.7-.5 1.7 0 1.7 .2 1.7-.3 1.7-1.4 1.7-2 1.7-.7 1.7 .4 1.7 .1 1.7-.6 1.6 1.3 1.7-.3 1.7 .8 1.7-.1 1.7 1 1.7 1.6 1.7 0 1.7-.1 1.7 .4 1.7 .7 1.7 .7 1.6 .7 1.7 1.5 1.7 0 1.7-.3 1.7-1.2 1.7-.5 1.7-.5 1.7-.7 1.7 .5 1.7 .2 1.7-.1 1.6-.3 1.7-.5 1.7-.1 1.7-.2" stroke="#9467bd" stroke-width="0.5" fill="none" stroke-opacity="0.4" stroke-linejoin="round"/>
<path d="M174.5 484.7l1.7-3.2 1.7-1.7 1.7-1.5 1.7 .6 1.7 1.1 1.6 2.7 1.7 2.5 1.7 3 1.7 .6 1.7 1.1 1.7 1 1.7 .5 1.7 .1 1.7 .3 1.7-.1 1.7-.5 1.6 1 1.7 .6 1.7 1.9 1.7 1.4 1.7 1.5 1.7 2.3 1.7 .5 1.7 .8 1.7-.8 1.7-1.3 1.7-2.2 1.7-.6 1.6-.1 1.7 .3 1.7 1.1 1.7 1 1.7 0 1.7 .2 1.7 .2 1.7 .8 1.7 0 1.7-.1 1.7 .1 1.6-2.3 1.7-1.9 1.7-1.6 1.7-.4 1.7 .3 1.7 1.2 1.7 .5 1.7 .2 1.7 .6 1.7 .1 1.7 .7 1.6-.4 1.7-1.8 1.7-1.7 1.7-1.6 1.7-.7 1.7 1 1.7 .8 1.7 .7 1.7 .1 1.7 .3 1.7 .1 1.6 .4 1.7-.1 1.7 0 1.7 0" stroke="#8c564b" stroke-width="0.5" fill="none" stroke-opacity="0.4" stroke-linejoin="round"/>
<path d="M174.5 489.1l1.7-3.2 1.7-2.4 1.7-.3 1.7-.7 1.7 2.4 1.6 3.4 1.7 4.5 1.7 3.8 1.7 3.1 1.7 3 1.7 1 1.7 .4 1.7-1.7 1.7-1.4 1.7-3.5 1.7-2.4 1.6-2.2 1.7-1.2 1.7 .2 1.7 1 1.7 .8 1.7 1.6 1.7 1.5 1.7 2.3 1.7 3.8 1.7 2.4 1.7 1.7 1.7 .7 1.6-.1 1.7-1.7 1.7-2.1 1.7-2.3 1.7-1.2 1.7-.4 1.7 .4 1.7 .2 1.7-.8 1.7-1.3 1.7-.7 1.6 .1 1.7-.3 1.7 .8 1.7 .7 1.7 .2 1.7-.9 1.7-1.1 1.7-.9 1.7-1.7 1.7-1.2 1.7-1.1 1.6 .4 1.7 1.3 1.7 2.7 1.7 1.8 1.7 .6 1.7-.9 1.7-1.2 1.7-.8 1.7 .1 1.7 .5 1.7 1.1 1.6 .5 1.7-.4 1.7-1.4 1.7-.3" stroke="#e377c2" stroke-width="0.5" fill="none" stroke-opacity="0.4" stroke-linejoin="round"/>
<path d="M174.5 476.8l1.7-5 1.7-4.3 1.7-2.3 1.7 .9 1.7 2.7 1.6 9.2 1.7 8.3 1.7 6.9 1.7 4.6 1.7 2.8 1.7-3.3 1.7-2.8 1.7-3.2 1.7-2.5 1.7-1.5 1.7 2.5 1.6 1.2 1.7 3.6 1.7 6.4 1.7 3.9 1.7 .2 1.7 1.5 1.7-2.1 1.7-2.9 1.7-.7 1.7-3.5 1.7-2.9 1.7-1.3 1.6-1.8 1.7-1.5 1.7 .2 1.7-.3 1.7-1.6 1.7-2 1.7-3.6 1.7-3 1.7 .1 1.7 .4 1.7 4.6 1.6 7.3 1.7 9.8 1.7 7.4 1.7 7.6 1.7 2.9 1.7 1 1.7-2.7 1.7-1.9 1.7-2.3 1.7 1.9 1.7-.3 1.6 .6 1.7 .3 1.7-.6 1.7-3.4 1.7-2.7 1.7-6.6 1.7-7.3 1.7-7.4 1.7-6.2 1.7-6 1.7-5.1 1.6-4.6 1.7-3.4 1.7-3.3 1.7-3" stroke="#e377c2" stroke-width="0.5" fill="none" stroke-opacity="0.4" stroke-linejoin="round"/>
<path d="M174.5 490.6l1.7-2.6 1.7-2.5 1.7 .1 1.7-.8 1.7-.2 1.6 0 1.7 2.1 1.7-.1 1.7 1.8 1.7 .8 1.7 1.2 1.7 .3 1.7 .8 1.7 .2 1.7 .3 1.7-2.3 1.6-1.3 1.7-.4 1.7 1 1.7 1.6 1.7 .2 1.7-.2 1.7 .2 1.7 .2 1.7-.3 1.7 .4 1.7 1 1.7 .5 1.6-.1 1.7 .3 1.7 1.4 1.7 1.5 1.7 .7 1.7-.2 1.7-.4 1.7 0 1.7 1.3 1.7 .4 1.7 3 1.6 1.5 1.7 1.2 1.7-1.2 1.7-.5 1.7-2.6 1.7-1.3 1.7-2.6 1.7-.9 1.7-1.7 1.7 .4 1.7 .8 1.6 2 1.7 .5 1.7 .3 1.7-.7 1.7 .3 1.7-1 1.7-.7 1.7-.6 1.7 .9 1.7 1.7 1.7 3.2 1.6 4.2 1.7 2.6 1.7 1.1 1.7-.9" stroke="#8c564b" stroke-width="0.5" fill="none" stroke-opacity="0.4" stroke-linejoin="round"/>
<path d="M174.5 483.9l1.7 .6 1.7 1.6 1.7 1.2 1.7 1.7 1.7 .8 1.6 2.7 1.7 2.9 1.7 4.8 1.7 2.6 1.7 1.7 1.7-.2 1.7-.5 1.7-2 1.7-.7 1.7 .7 1.7 .4 1.6 1.5 1.7-.4 1.7-1.4 1.7-2.8 1.7-3.9 1.7-2.1 1.7-1.1 1.7-.2 1.7 .4 1.7 .5 1.7 .7 1.7 1.1 1.6 1.6 1.7-.5 1.7 .9 1.7-1.7 1.7-.8 1.7-1.3 1.7 .4 1.7-.1 1.7 .5 1.7-.1 1.7 .4 1.6 1.2 1.7 .4 1.7 2 1.7 .8 1.7 .6 1.7-.8 1.7-.6 1.7 .3 1.7 2 1.7 1.8 1.7 .6 1.6 1.9 1.7-1.2 1.7-1.1 1.7-3.9 1.7-2.2 1.7-4.1 1.7-1.5 1.7-.7 1.7 3.6 1.7 3 1.7 3.1 1.6 1.9 1.7 1.8 1.7 .1 1.7 1.5" stroke="#8c564b" stroke-width="0.5" fill="none" stroke-opacity="0.4" stroke-linejoin="round"/>
<path d="M174.5 482.1l1.7-5.8 1.7-5.6 1.7-2.1 1.7 2.2 1.7 4.3 1.6 3.8 1.7 4.8 1.7 4.4 1.7 3.2 1.7 1.9 1.7 1.9 1.7 1.9 1.7 .3 1.7-.2 1.7-1.1 1.7-1.8 1.6-3.3 1.7 1.5 1.7 2.8 1.7 4.9 1.7 3.6 1.7 4.3 1.7-1.2 1.7-1.9 1.7-4.2 1.7-2 1.7-3.8 1.7-1.9 1.6-1.4 1.7-.3 1.7-1.6 1.7 1.5 1.7 2.6 1.7 2.6 1.7 .7 1.7 1.9 1.7 1.7 1.7 2.7 1.7 0 1.6-.6 1.7-4.1 1.7-2.2 1.7-3 1.7-.2 1.7 .4 1.7 1.6 1.7 0 1.7-1.4 1.7-.6 1.7 1.1 1.6 1.8 1.7 3.7 1.7 1 1.7-1.1 1.7-1.6 1.7 1.7 1.7 1.8 1.7 3.2 1.7 .3 1.7-2.1 1.7-3.4 1.6-3.4 1.7-2.1 1.7 .5 1.7 .3" stroke="#d62728" stroke-width="0.5" fill="none" stroke-opacity="0.4" stroke-linejoin="round"/>
<path d="M174.5 467.6l1.7-.5 1.7 2 1.7 2.5 1.7 3.2 1.7 2.6 1.6 3.5 1.7 2.9 1.7 2.8 1.7 2.7 1.7 2.9 1.7 1.5 1.7 0 1.7-.4 1.7 .4 1.7 1 1.7 2.7 1.6 2.6 1.7 .7 1.7 1.8 1.7 2.1 1.7 .7 1.7-.4 1.7-.2 1.7-.4 1.7-.6 1.7-.5 1.7-.7 1.7-.2 1.6-1.1 1.7-1.2 1.7-.5 1.7-.4 1.7-.9 1.7-.6 1.7 0 1.7-.3 1.7-.8 1.7-.6 1.7 0 1.6-.1 1.7-.1 1.7 1.1 1.7 1.3 1.7 1 1.7 .9 1.7 1.7 1.7 .7 1.7-1.1 1.7-.9 1.7-.9 1.6-.8 1.7-1 1.7-.5 1.7 .2 1.7 .1 1.7 .6 1.7-.1 1.7 .1 1.7-.4 1.7 .2 1.7 .5 1.6-.5 1.7-1.5 1.7-2.3 1.7-1.4" stroke="#7f7f7f" stroke-width="0.5" fill="none" stroke-opacity="0.4" stroke-linejoin="round"/>
<path d="M174.5 485.8l1.7-2.1 1.7-1.7 1.7-.6 1.7 .3 1.7 1.9 1.6 1.8 1.7 .7 1.7 1.2 1.7 2.6 1.7 3 1.7 1.6 1.7 1.9 1.7 1 1.7 .8 1.7 .5 1.7-.7 1.6-1.1 1.7 .2 1.7 1.7 1.7 2.1 1.7 2.2 1.7 1.2 1.7-.2 1.7 .5 1.7-.3 1.7 .4 1.7 .3 1.7 0 1.6-.8 1.7 .2 1.7-.2 1.7-.1 1.7 .4 1.7 .7 1.7 .6 1.7 .5 1.7-.3 1.7 .4 1.7 2.2 1.6 1.3 1.7 1.6 1.7 .9 1.7 .4 1.7-.4 1.7-.8 1.7-1.2 1.7-1.7 1.7-2.7 1.7-3 1.7-.9 1.6-1.1 1.7-.7 1.7 1.8 1.7 1.3 1.7 1.1 1.7-.1 1.7-.8 1.7-2.5 1.7-1.4 1.7-1.1 1.7 .5 1.6 1.4 1.7 2.2 1.7 2.7 1.7 1.2" stroke="#9467bd" stroke-width="0.5" fill="none" stroke-opacity="0.4" stroke-linejoin="round"/>
<path d="M174.5 502.5l1.7-2.4 1.7-2.2 1.7-1.2 1.7-2 1.7-1 1.6-.5 1.7 .7 1.7 1.6 1.7 1.3 1.7 .9 1.7 .6 1.7-1 1.7-1.3 1.7 .3 1.7 .3 1.7 1.4 1.6 1.8 1.7 1.6 1.7-.5 1.7-.5 1.7-.9 1.7-.6 1.7-.6 1.7-.1 1.7 .4 1.7-.8 1.7-2.4 1.7-1.3 1.6-1.8 1.7-1.1 1.7-.8 1.7 1.5 1.7 .7 1.7 1.7 1.7 1.1 1.7 1 1.7 .5 1.7 .7 1.7 .1 1.6 .3 1.7-.6 1.7 .3 1.7-.6 1.7-.4 1.7-1 1.7 .5 1.7-.3 1.7 .4 1.7-.4 1.7-1 1.6-.2 1.7-.7 1.7 .8 1.7 1.3 1.7 .9 1.7 .7 1.7 .5 1.7 .2 1.7-.3 1.7-.3 1.7-.6 1.6 .7 1.7 1.7 1.7 1.4 1.7 .9" stroke="#bcbd22" stroke-width="0.5" fill="none" stroke-opacity="0.4" stroke-linejoin="round"/>
<path d="M174.5 486.3l1.7 .6 1.7 .7 1.7 1.1 1.7 1.8 1.7 1.3 1.6 .9 1.7 .4 1.7 1.2 1.7-.6 1.7 .8 1.7 1.1 1.7 1.3 1.7 .5 1.7-.1 1.7 .1 1.7-.1 1.6 .1 1.7 0 1.7 .8 1.7 .8 1.7 0 1.7-1.2 1.7-.8 1.7-1.7 1.7 .9 1.7 .4 1.7 1.3 1.7 1 1.6 .7 1.7-1.8 1.7-.7 1.7-1 1.7 .3 1.7 .6 1.7 2.5 1.7 .8 1.7 .5 1.7-.8 1.7 1.7 1.6 .8 1.7 .2 1.7-.3 1.7 .1 1.7-.9 1.7-1.8 1.7-.6 1.7-.7 1.7-.6 1.7-1.8 1.7-.5 1.6-1.3 1.7-.7 1.7 0 1.7 1.4 1.7 .1 1.7 1.6 1.7 .7 1.7-.2 1.7-.9 1.7-.5 1.7-.1 1.6 .7 1.7 1.3 1.7 2.8 1.7 2.1" stroke="#2ca02c" stroke-width="0.5" fill="none" stroke-opacity="0.4" stroke-linejoin="round"/>
<path d="M174.5 481.4l1.7-1.9 1.7-.6 1.7 .8 1.7 2.3 1.7 1.9 1.6 1.6 1.7 2.3 1.7 2.2 1.7 2.2 1.7 1.7 1.7 1.3 1.7 .6 1.7 0 1.7 .7 1.7 .4 1.7 .9 1.6-.8 1.7-1.1 1.7-2.9 1.7-.9 1.7-.7 1.7 .7 1.7 .5 1.7 2.2 1.7 1.6 1.7 1.6 1.7 1.6 1.7 .5 1.6 .6 1.7 .4 1.7-1.8 1.7-.6 1.7-1.6 1.7-.3 1.7-.2 1.7 .8 1.7 .1 1.7 .7 1.7 .9 1.6 .2 1.7 .4 1.7-.6 1.7-.6 1.7-1.5 1.7-.9 1.7 .5 1.7 1.5 1.7 .8 1.7 .2 1.7-.5 1.6-.8 1.7-1.3 1.7-.6 1.7-2.2 1.7-.9 1.7-1.3 1.7 1.6 1.7 1.4 1.7 2.6 1.7 2.2 1.7 2 1.6 1.1 1.7-.1 1.7 1.1 1.7 .7" stroke="#7f7f7f" stroke-width="0.5" fill="none" stroke-opacity="0.4" stroke-linejoin="round"/>
<path d="M174.5 490.9l1.7-3.6 1.7-4.2 1.7-3.6 1.7-1.3 1.7 .8 1.6 3.2 1.7 4.6 1.7 4.6 1.7 5.2 1.7 2.5 1.7 2.2 1.7 .6 1.7-.5 1.7-1.4 1.7-2.2 1.7-1.2 1.6-.3 1.7 1.4 1.7 2.4 1.7 3.2 1.7 1.8 1.7 .7 1.7 1.2 1.7-1.1 1.7-2.5 1.7-2.9 1.7-5.1 1.7-2.5 1.6-1.7 1.7 1 1.7 .8 1.7 3.6 1.7 2.9 1.7 1 1.7-.2 1.7-.1 1.7-.7 1.7-1.8 1.7-1.9 1.6 0 1.7-.2 1.7 0 1.7-1.6 1.7 .4 1.7-.8 1.7 .2 1.7 .2 1.7 1.6 1.7 .2 1.7 .7 1.6 0 1.7 .2 1.7 .4 1.7-.7 1.7 0 1.7 2.1 1.7 1.3 1.7 1 1.7 .5 1.7 .3 1.7-.2 1.6-2.7 1.7-4.9 1.7-5.1 1.7-2.9" stroke="#1f77b4" stroke-width="0.5" fill="none" stroke-opacity="0.4" stroke-linejoin="round"/>
<path d="M174.5 466.4l1.7 1.4 1.7 4.8 1.7 6.2 1.7 3.8 1.7 3.6 1.6 1.9 1.7 2.8 1.7 2.3 1.7 3.8 1.7 1.1 1.7-.7 1.7-1.9 1.7-2.2 1.7 .8 1.7 5.6 1.7 8.6 1.6 6.8 1.7 8.9 1.7 4 1.7 2 1.7 .9 1.7-1.1 1.7-4.6 1.7 0 1.7-2.1 1.7-3 1.7 .3 1.7 2 1.6 1.4 1.7-.1 1.7-1.8 1.7-4.3 1.7-2.7 1.7-6.5 1.7-3.7 1.7-3 1.7 2.2 1.7 .4 1.7 2 1.6 2.5 1.7 2.9 1.7-2.4 1.7-3.2 1.7-2.3 1.7-4.7 1.7-3.5 1.7-2 1.7-2.3 1.7 0 1.7 3.6 1.6 2.5 1.7 4.3 1.7 2.8 1.7-.9 1.7-.5 1.7-2.2 1.7-2.9 1.7-.9 1.7 1.8 1.7-.7 1.7 .1 1.6-2.8 1.7-4.8 1.7-5.2 1.7-4.4" stroke="#bcbd22" stroke-width="0.5" fill="none" stroke-opacity="0.4" stroke-linejoin="round"/>
<path d="M174.5 497.2l1.7-2.5 1.7-1.8 1.7-.1 1.7-.1 1.7 1.6 1.6 .1 1.7 2.1 1.7-.8 1.7-.2 1.7-1.7 1.7-2.3 1.7-2.3 1.7-1.1 1.7 2.7 1.7 2.1 1.7 3.2 1.6 4.1 1.7 .5 1.7-.6 1.7-1.4 1.7 .4 1.7 .8 1.7 2 1.7 1.5 1.7 1 1.7-.8 1.7-2 1.7-.3 1.6-.5 1.7-1 1.7-.1 1.7-.2 1.7 .6 1.7 .8 1.7 3.5 1.7 3.1 1.7 2.7 1.7-1.5 1.7-1.1 1.6-2.7 1.7-3.4 1.7-3 1.7-1.8 1.7 1.2 1.7-.1 1.7 0 1.7-2 1.7-.4 1.7-2.1 1.7 .5 1.6 2.2 1.7 3.3 1.7 .8 1.7 .9 1.7 .2 1.7-.4 1.7-1 1.7-1.7 1.7-1.1 1.7-1.5 1.7 .2 1.6 .6 1.7 2.7 1.7 1.5 1.7 2.4" stroke="#7f7f7f" stroke-width="0.5" fill="none" stroke-opacity="0.4" stroke-linejoin="round"/>
<path d="M174.5 488.8l1.7-.3 1.7 .3 1.7 .5 1.7-.2 1.7 .8 1.6-.1 1.7 1.6 1.7 1 1.7 2 1.7 1.5 1.7 .2 1.7-.5 1.7-1.1 1.7-.8 1.7-.4 1.7 1 1.6 1.4 1.7 .8 1.7 .5 1.7-.8 1.7-2 1.7-1.1 1.7-1.2 1.7-.7 1.7-1 1.7 .1 1.7 .6 1.7 1.4 1.6 .7 1.7 .8 1.7 .6 1.7 .6 1.7 .5 1.7 0 1.7-.8 1.7-.6 1.7-.5 1.7-.1 1.7 .5 1.6 .4 1.7 .1 1.7 .2 1.7-.3 1.7 .4 1.7-.3 1.7 .3 1.7 .2 1.7 .4 1.7 .2 1.7 .8 1.6-1 1.7-.7 1.7-.4 1.7 .5 1.7-1.3 1.7-.2 1.7-.5 1.7-.2 1.7-.9 1.7-.9 1.7 .1 1.6-.2 1.7 .8 1.7 1.5 1.7 .6" stroke="#e377c2" stroke-width="0.5" fill="none" stroke-opacity="0.4" stroke-linejoin="round"/>
<path d="M174.5 488.4l1.7-.6 1.7 .2 1.7-.6 1.7 0 1.7 .3 1.6 1.3 1.7 1.8 1.7 1.5 1.7 2.6 1.7 2.4 1.7 .9 1.7 4.4 1.7 3.5 1.7 .9 1.7-1.8 1.7-2.3 1.6-4.9 1.7-5.3 1.7-1.3 1.7 .7 1.7 2.4 1.7 1.5 1.7 1.8 1.7-.7 1.7-.8 1.7-.6 1.7 1.3 1.7-.9 1.6-1.9 1.7-2.6 1.7-.2 1.7 1.3 1.7 3.3 1.7 2.1 1.7 2.8 1.7-.8 1.7-2.6 1.7-2.7 1.7-.9 1.6-1.2 1.7-.3 1.7 .4 1.7 2.6 1.7 1.9 1.7 2.1 1.7 1.8 1.7 2.9 1.7-1.1 1.7 1.5 1.7 .1 1.6-1.1 1.7-4.4 1.7-3.2 1.7-1.7 1.7-.2 1.7 1 1.7 1.6 1.7 2.1 1.7-1.7 1.7-1.6 1.7-2.2 1.6-.4 1.7-.7 1.7 1.2 1.7 1.4" stroke="#2ca02c" stroke-width="0.5" fill="none" stroke-opacity="0.4" stroke-linejoin="round"/>
<path d="M174.5 486.9l1.7-1.7 1.7-1.4 1.7-1.5 1.7-.2 1.7 .1 1.6 .9 1.7 .7 1.7 2.6 1.7 2.9 1.7 1.7 1.7 2.5 1.7 2.7 1.7 1.4 1.7 .8 1.7 0 1.7-.8 1.6-1 1.7-.5 1.7-.4 1.7 .3 1.7-.6 1.7-1.3 1.7-.8 1.7-.1 1.7-.1 1.7 1.3 1.7 .4 1.7 1.2 1.6 .9 1.7 .6 1.7-.3 1.7-.5 1.7-1 1.7-.8 1.7-.9 1.7-.6 1.7 .9 1.7 1.1 1.7-.4 1.6 .4 1.7 .8 1.7 .2 1.7 0 1.7 .5 1.7 .2 1.7 0 1.7-1 1.7 0 1.7-1.4 1.7-1.3 1.6-.5 1.7 .7 1.7 .5 1.7 0 1.7-.4 1.7 .3 1.7-.1 1.7 1.3 1.7 .3 1.7 .7 1.7 0 1.6 .3 1.7-.5 1.7-1 1.7-.1" stroke="#7f7f7f" stroke-width="0.5" fill="none" stroke-opacity="0.4" stroke-linejoin="round"/>
<path d="M174.5 475.5l1.7-2.8 1.7-2.2 1.7-.6 1.7 2.4 1.7 2.3 1.6 4 1.7 3.3 1.7 3.6 1.7 1.2 1.7 2.3 1.7 1.5 1.7 2 1.7 2.2 1.7 1.4 1.7 .4 1.7-1 1.6-1.8 1.7-.9 1.7-.9 1.7-.8 1.7-.6 1.7 .3 1.7-.1 1.7 1.9 1.7 .5 1.7 2.6 1.7 .9 1.7 .6 1.6 0 1.7 .3 1.7 0 1.7-1.3 1.7-.2 1.7-.9 1.7-.5 1.7-.4 1.7-.6 1.7 .2 1.7-.4 1.6-.2 1.7 .2 1.7-.5 1.7 .5 1.7 .4 1.7 1.2 1.7 .2 1.7 0 1.7-.8 1.7-1.2 1.7 .1 1.6-.7 1.7 1.4 1.7 1.4 1.7 2.5 1.7-.2 1.7-.3 1.7-.3 1.7 0 1.7-.3 1.7 1.4 1.7 1.5 1.6 1.3 1.7 .9 1.7 1.6 1.7 1.1" stroke="#ff7f0e" stroke-width="0.5" fill="none" stroke-opacity="0.4" stroke-linejoin="round"/>
<path d="M174.5 477.8l1.7-.2 1.7 1.2 1.7 1.4 1.7-.2 1.7 .1 1.6 2.3 1.7 4.7 1.7 3.3 1.7 2.2 1.7 1.7 1.7 1.1 1.7-.8 1.7 1.3 1.7 .5 1.7 .9 1.7 .3 1.6 1.2 1.7 1.9 1.7-.2 1.7-2.5 1.7-2.5 1.7-1.8 1.7-.9 1.7 .7 1.7-.3 1.7-.5 1.7 0 1.7 1 1.6 3.3 1.7 2.3 1.7 3.3 1.7-.3 1.7-1.5 1.7-3.4 1.7-2.9 1.7-1.6 1.7 .6 1.7 2.3 1.7-.7 1.6 .2 1.7 .6 1.7 .6 1.7-.1 1.7-1.3 1.7-1 1.7-.1 1.7-.7 1.7 1.5 1.7 .4 1.7 1.3 1.6-.4 1.7 1.1 1.7 .2 1.7 .3 1.7 1.2 1.7-.3 1.7 .4 1.7-1.2 1.7-1.4 1.7-1.9 1.7-.9 1.6 1 1.7 2.4 1.7 3.6 1.7 2.2" stroke="#d62728" stroke-width="0.5" fill="none" stroke-opacity="0.4" stroke-linejoin="round"/>
<path d="M174.5 490.5l1.7-.4 1.7-.4 1.7 .6 1.7 1 1.7 1.6 1.6 .9 1.7 .8 1.7 .3 1.7 .1 1.7 .3 1.7 .2 1.7 1.2 1.7 1.5 1.7 1.1 1.7 .8 1.7 .3 1.6-.1 1.7 .4 1.7-.1 1.7 1.6 1.7 .7 1.7 1.1 1.7-1.1 1.7-.6 1.7-1.8 1.7-.8 1.7-.9 1.7 .4 1.6 1.2 1.7-.3 1.7-.5 1.7-2.3 1.7-2 1.7-1.4 1.7 1.2 1.7-.1 1.7 .6 1.7 1 1.7 1.2 1.6 1 1.7 2.2 1.7 1.2 1.7 .8 1.7 0 1.7-1.1 1.7-.7 1.7-1.8 1.7-2.3 1.7-1.6 1.7 1.3 1.6-.6 1.7 1.1 1.7 .4 1.7 .9 1.7-.4 1.7 .8 1.7 .1 1.7-.1 1.7 .4 1.7 .9 1.7 1.3 1.6-.3 1.7-2.1 1.7-2.6 1.7-1.5" stroke="#9467bd" stroke-width="0.5" fill="none" stroke-opacity="0.4" stroke-linejoin="round"/>
<path d="M174.5 487l1.7-.1 1.7 1.2 1.7 2 1.7 1.4 1.7 2.3 1.6 1.8 1.7 3.2 1.7-.6 1.7 .8 1.7-1.2 1.7-1.6 1.7-3.3 1.7 .1 1.7 0 1.7 .4 1.7 .2 1.6-.1 1.7 1.4 1.7 2.7 1.7 3.9 1.7 4 1.7 1.2 1.7-1.2 1.7-2.6 1.7-3.3 1.7-2.3 1.7 0 1.7 2.3 1.6 .9 1.7 2.8 1.7 1.7 1.7 .1 1.7-1.8 1.7-2.1 1.7-.6 1.7-1.9 1.7-.3 1.7-1.3 1.7 2 1.6 .1 1.7 .9 1.7 1.3 1.7 1.6 1.7 .7 1.7 .6 1.7 .4 1.7-.2 1.7-3.1 1.7-3.1 1.7-2.6 1.6-.2 1.7-.3 1.7 .7 1.7-.6 1.7 .4 1.7 1.3 1.7-.7 1.7-.2 1.7-.4 1.7-.5 1.7-1.9 1.6-1.9 1.7-1.1 1.7 .8 1.7 .4" stroke="#1f77b4" stroke-width="0.5" fill="none" stroke-opacity="0.4" stroke-linejoin="round"/>
<path d="M174.5 482.1l1.7-1.9 1.7-1.6 1.7 .1 1.7 1.4 1.7 2.5 1.6 1.8 1.7 1.4 1.7 1.2 1.7 3.1 1.7 2.3 1.7 2.2 1.7 1.9 1.7 1.5 1.7 1.1 1.7-.1 1.7 .8 1.6-.9 1.7-.9 1.7-3.7 1.7-2.6 1.7-3.4 1.7-2.5 1.7-.5 1.7 1.1 1.7 1.8 1.7 3.9 1.7 2 1.7 1.8 1.6 1 1.7-1.4 1.7-2.6 1.7-2 1.7-2.4 1.7-1.1 1.7-1.5 1.7 .1 1.7 1.6 1.7 2.4 1.7 2.3 1.6 2.6 1.7 .7 1.7 .3 1.7 .2 1.7 1.5 1.7-.3 1.7 2.2 1.7 1.8 1.7 3 1.7-.2 1.7-1 1.6-1.5 1.7-2.4 1.7-2.8 1.7-4.5 1.7-2.6 1.7-2 1.7-.2 1.7 1.4 1.7 2.7 1.7 1.5 1.7 .2 1.6 .4 1.7 .2 1.7-.9 1.7-.4" stroke="#7f7f7f" stroke-width="0.5" fill="none" stroke-opacity="0.4" stroke-linejoin="round"/>
<path d="M174.5 498.5l1.7-6.9 1.7-7.3 1.7-8.3 1.7-7.7 1.7-4.1 1.6-2.1 1.7-2.3 1.7-.6 1.7 3.8 1.7 5.4 1.7 7.7 1.7 8.7 1.7 7.9 1.7 8.1 1.7 6 1.7 3.1 1.6 1.9 1.7 2.5 1.7 3.5 1.7 6.2 1.7 6.6 1.7 3.4 1.7 1.1 1.7-3.8 1.7-6.7 1.7-11.2 1.7-10.6 1.7-7.7 1.6-3.7 1.7 .3 1.7 2.1 1.7 3.9 1.7 7.6 1.7 5.2 1.7-.5 1.7-2.5 1.7-.6 1.7-2.8 1.7-1.9 1.6-3 1.7-1.3 1.7-3.4 1.7-4.9 1.7-5.8 1.7-3.7 1.7-2 1.7 .5 1.7 .5 1.7 1.4 1.7 1.5 1.6-.5 1.7-.5 1.7-.8 1.7 .2 1.7 2 1.7 3.9 1.7 3.5 1.7 6.5 1.7 5.8 1.7 1.4 1.7 .4 1.6-1.7 1.7-8.4 1.7-10 1.7-8" stroke="#2ca02c" stroke-width="0.5" fill="none" stroke-opacity="0.4" stroke-linejoin="round"/>
<path d="M174.5 506.2l1.7-.9 1.7 .2 1.7-.8 1.7 .7 1.7-.7 1.6 .3 1.7 .1 1.7 0 1.7 .6 1.7 .7 1.7 1.8 1.7 2.4 1.7 1.7 1.7 1.5 1.7 .6 1.7-.7 1.6-2.3 1.7-1.4 1.7-2.1 1.7-1.6 1.7-.6 1.7-2.3 1.7 .2 1.7-.6 1.7 .4 1.7 .8 1.7 1.3 1.7 .1 1.6 .9 1.7-1 1.7-.1 1.7 1.2 1.7 1.2 1.7 .5 1.7 .1 1.7 .3 1.7-.2 1.7-.7 1.7 .5 1.6 .3 1.7-.9 1.7-1.3 1.7-.6 1.7 0 1.7-.5 1.7 .3 1.7-.1 1.7 .5 1.7-1.4 1.7-1.1 1.6 .2 1.7 .4 1.7 .2 1.7 .5 1.7 1.3 1.7 1.6 1.7 .5 1.7 .5 1.7-.3 1.7 .1 1.7 .8 1.6 1.2 1.7 .5 1.7-2.3 1.7-2.7" stroke="#8c564b" stroke-width="0.5" fill="none" stroke-opacity="0.4" stroke-linejoin="round"/>
<path d="M174.5 487l1.7-2.7 1.7-2 1.7-.5 1.7 .6 1.7 1.3 1.6 1 1.7 1.5 1.7 2.1 1.7 2.2 1.7 3.4 1.7 3.5 1.7 3.3 1.7 .9 1.7 .8 1.7-.4 1.7-.7 1.6-1.2 1.7-1.4 1.7-.3 1.7-.2 1.7 .3 1.7 1.5 1.7 1 1.7 .6 1.7-1 1.7-2.6 1.7-2.5 1.7 1.6 1.6 2.3 1.7 2.7 1.7 2.9 1.7 1.1 1.7-.2 1.7-1.1 1.7-.2 1.7-.6 1.7 .4 1.7-.2 1.7 .7 1.6-2 1.7-1.4 1.7 .7 1.7 1.8 1.7 1.1 1.7 1.5 1.7-1.2 1.7-1 1.7-.9 1.7 .7 1.7 .1 1.6 .3 1.7-1.1 1.7-.9 1.7-.4 1.7 .3 1.7 .6 1.7 .1 1.7-.9 1.7-2.5 1.7-2 1.7-2.4 1.6-1.1 1.7-1.2 1.7-.2 1.7 .2" stroke="#17becf" stroke-width="0.5" fill="none" stroke-opacity="0.4" stroke-linejoin="round"/>
<path d="M174.5 489.5l1.7-1.8 1.7-2.7 1.7-1 1.7-.4 1.7 1.6 1.6 2.7 1.7 4 1.7 4.1 1.7 2.4 1.7 2 1.7 1 1.7 .4 1.7-.8 1.7-.8 1.7 .9 1.7 .2 1.6 .9 1.7-.1 1.7 .1 1.7 .3 1.7-.7 1.7-.8 1.7-.5 1.7 1.8 1.7 1.4 1.7 .9 1.7-.1 1.7 .3 1.6 0 1.7-1.1 1.7-2.3 1.7-2.3 1.7-2 1.7-.7 1.7-1.3 1.7-.7 1.7 0 1.7 .3 1.7-.3 1.6-.3 1.7 .8 1.7 2.2 1.7 1.4 1.7 2.2 1.7 .8 1.7-1.3 1.7-2.2 1.7-1.9 1.7-.7 1.7-.2 1.6-.5 1.7 .8 1.7-.2 1.7-2 1.7-2.6 1.7-.1 1.7 2.5 1.7 2.9 1.7 3 1.7 1.4 1.7 1.7 1.6-1.4 1.7 .7 1.7 .7 1.7 .5" stroke="#e377c2" stroke-width="0.5" fill="none" stroke-opacity="0.4" stroke-linejoin="round"/>
<path d="M174.5 481.7l1.7-3 1.7-2.2 1.7-1.6 1.7 .4 1.7 1.3 1.6 2 1.7 4.3 1.7 5.3 1.7 4.7 1.7 2.6 1.7 1.8 1.7 .2 1.7-.4 1.7-.8 1.7 .4 1.7 .2 1.6-.3 1.7-.4 1.7-.2 1.7-1.3 1.7-2.8 1.7-1.1 1.7 .3 1.7 1.3 1.7 1.7 1.7 3.3 1.7 3.2 1.7 2.9 1.6 .9 1.7-.9 1.7-2.4 1.7-2 1.7-2.5 1.7-.8 1.7-.2 1.7 0 1.7-.5 1.7-.5 1.7-.6 1.6 .4 1.7 .2 1.7 1.6 1.7 0 1.7 .6 1.7 1 1.7 .7 1.7-.3 1.7-.7 1.7-.1 1.7-1.5 1.6-1 1.7-2.1 1.7 .7 1.7 1.8 1.7 2.7 1.7 2.4 1.7 2.9 1.7 .5 1.7-.2 1.7-3.1 1.7-2.7 1.6-2.1 1.7-.5 1.7-1 1.7-.2" stroke="#1f77b4" stroke-width="0.5" fill="none" stroke-opacity="0.4" stroke-linejoin="round"/>
<path d="M174.5 485.4l1.7-1.4 1.7 .3 1.7-.1 1.7 1.2 1.7 .3 1.6 .3 1.7 1 1.7 2.2 1.7 2 1.7 1.6 1.7 .7 1.7 .4 1.7 1 1.7 2.2 1.7 1.6 1.7 3 1.6 .7 1.7 .5 1.7-.6 1.7-.5 1.7-1.5 1.7-.7 1.7-1.1 1.7 0 1.7 .2 1.7 .4 1.7-.6 1.7-.7 1.6-1.9 1.7-1.5 1.7-1.4 1.7 .4 1.7 2.3 1.7 4 1.7 2.5 1.7 3.1 1.7 .5 1.7-.1 1.7-.9 1.6 .2 1.7-.6 1.7 1.5 1.7 .4 1.7 .3 1.7 1.5 1.7 .6 1.7-.8 1.7-2.2 1.7-2.8 1.7-4.7 1.6-4 1.7-1.3 1.7 .1 1.7 1.6 1.7-.1 1.7 .6 1.7-1.9 1.7-1.5 1.7-.6 1.7 1.9 1.7 3.5 1.6 3.6 1.7 2.2 1.7 1 1.7-.4" stroke="#7f7f7f" stroke-width="0.5" fill="none" stroke-opacity="0.4" stroke-linejoin="round"/>
<path d="M174.5 485.7l1.7-2.8 1.7-1.8 1.7-.9 1.7 1.3 1.7 2.7 1.6 2.9 1.7 1.7 1.7 2.4 1.7 3.3 1.7 2.7 1.7 .4 1.7 1.2 1.7-.3 1.7-.5 1.7-1.4 1.7-.9 1.6-.6 1.7 .3 1.7 1 1.7 .8 1.7-.1 1.7-1.6 1.7-.4 1.7 1 1.7 .6 1.7 1.6 1.7 1.5 1.7 .7 1.6 .4 1.7-.4 1.7-1.9 1.7-1.3 1.7-1.9 1.7 .5 1.7 0 1.7-.1 1.7-.5 1.7 .3 1.7 .7 1.6 .7 1.7 .1 1.7-.1 1.7-.7 1.7-.4 1.7 .4 1.7 .5 1.7-.2 1.7-.1 1.7 1 1.7 0 1.6 0 1.7-.9 1.7-1.5 1.7-1.2 1.7-2.5 1.7-1.3 1.7-.6 1.7 .9 1.7 1.4 1.7 2.5 1.7 2.7 1.6 2.2 1.7 1.4 1.7 .3 1.7 .5" stroke="#bcbd22" stroke-width="0.5" fill="none" stroke-opacity="0.4" stroke-linejoin="round"/>
<path d="M174.5 489l1.7-2.5 1.7-1.8 1.7-.3 1.7 1.4 1.7 3 1.6 4 1.7 2.3 1.7 2.3 1.7 1.7 1.7 .7 1.7 1.3 1.7-.1 1.7 1.2 1.7 .6 1.7 .3 1.7-.5 1.6-1.5 1.7-.2 1.7-1.9 1.7 .9 1.7-.3 1.7 2.3 1.7 1 1.7 1.2 1.7 .3 1.7 .4 1.7-.9 1.7-1.7 1.6-.5 1.7 .7 1.7 .2 1.7 .5 1.7-1.6 1.7-1.3 1.7-2.4 1.7-1.8 1.7-.1 1.7 1.3 1.7 2.1 1.6 1.4 1.7 2.8 1.7 1.1 1.7-.2 1.7-.5 1.7-.7 1.7-.5 1.7-1.2 1.7-.2 1.7 .6 1.7-.4 1.6-.3 1.7 .2 1.7 .6 1.7-.3 1.7 1.3 1.7 .6 1.7 1.3 1.7-.7 1.7-.1 1.7-.9 1.7-.5 1.6-1.4 1.7-1.3 1.7-2.5 1.7-1.6" stroke="#17becf" stroke-width="0.5" fill="none" stroke-opacity="0.4" stroke-linejoin="round"/>
<path d="M174.5 475.2l1.7-1.2 1.7-1 1.7-.5 1.7 .7 1.7 3.1 1.6 3 1.7 3.6 1.7 3.5 1.7 3.7 1.7 1.5 1.7 1.8 1.7 2.7 1.7 3.2 1.7 2.3 1.7 .5 1.7-.6 1.6-2.6 1.7-3 1.7-1.7 1.7 .5 1.7-1.6 1.7-2.5 1.7-2.2 1.7-.9 1.7 0 1.7 1.5 1.7 2.9 1.7 2.8 1.6 1.1 1.7-1.6 1.7-2 1.7-.5 1.7 1.1 1.7 .4 1.7 3 1.7 3.4 1.7 2.9 1.7 .7 1.7-.9 1.6-.9 1.7-2 1.7-1.8 1.7-4.6 1.7-2.3 1.7-4 1.7-1.1 1.7 .7 1.7 1.3 1.7 2.2 1.7 2.5 1.6 1.8 1.7 1.8 1.7 0 1.7-1.9 1.7-1.6 1.7-.3 1.7-.6 1.7 1.4 1.7 2.3 1.7 2.5 1.7 1.3 1.6 .7 1.7-.1 1.7 .1 1.7-1.1" stroke="#ff7f0e" stroke-width="0.5" fill="none" stroke-opacity="0.4" stroke-linejoin="round"/>
<path d="M174.5 477.9l1.7-2.4 1.7-1.2 1.7-.2 1.7 1.1 1.7 2.5 1.6 3 1.7 3.8 1.7 4.7 1.7 4.9 1.7 3.1 1.7 2.6 1.7 .3 1.7 1 1.7 1.2 1.7 .1 1.7-.2 1.6-.6 1.7-.5 1.7-.7 1.7-.8 1.7 .8 1.7 .8 1.7 .4 1.7-2 1.7-.5 1.7-1.3 1.7-.9 1.7-.1 1.6 1.4 1.7 1.9 1.7 .5 1.7-.3 1.7 .5 1.7-.3 1.7-1.1 1.7-1.9 1.7-.1 1.7 .6 1.7 1 1.6 .9 1.7 .4 1.7-.6 1.7-1.2 1.7 .2 1.7-.4 1.7 0 1.7 .7 1.7-.1 1.7-.7 1.7-.6 1.6-.9 1.7-.9 1.7-.2 1.7-.2 1.7 .4 1.7 .6 1.7 .1 1.7 .5 1.7 1.1 1.7 0 1.7 .2 1.6 .5 1.7 .3 1.7 .4 1.7 .4" stroke="#2ca02c" stroke-width="0.5" fill="none" stroke-opacity="0.4" stroke-linejoin="round"/>
<path d="M174.5 448.6l1.7 1.9 1.7 2.5 1.7 4 1.7 3.8 1.7 3.2 1.6 1.8 1.7 1.6 1.7 .2 1.7 3.4 1.7 1.6 1.7 4.3 1.7 6.1 1.7 8.3 1.7 4.5 1.7 5.3 1.7 3.7 1.6 5.7 1.7 5.3 1.7 5.6 1.7 3.4 1.7 2.3 1.7 .8 1.7-3.3 1.7-5.7 1.7-6.5 1.7-5.1 1.7-6.2 1.7-3.8 1.6 .1 1.7 3.6 1.7 1.2 1.7 3 1.7 .1 1.7-1.3 1.7-2.2 1.7-1.9 1.7-1.7 1.7 3.3 1.7-1.7 1.6 1.8 1.7 1.2 1.7-2.6 1.7-5.8 1.7-.5 1.7-1.5 1.7 1.2 1.7 1.8 1.7 3.5 1.7 5.3 1.7 5.3 1.6 1.7 1.7 4.3 1.7 1.6 1.7-1.2 1.7-5.2 1.7-5 1.7-7.2 1.7-5.9 1.7-5.5 1.7-5.8 1.7-5.4 1.6-8 1.7-8.9 1.7-8.1 1.7-5" stroke="#ff7f0e" stroke-width="0.5" fill="none" stroke-opacity="0.4" stroke-linejoin="round"/>
<path d="M174.5 488.8l1.7-2.3 1.7-1.6 1.7-.2 1.7 .7 1.7 1.9 1.6 4.4 1.7 3.9 1.7 2.1 1.7 1.4 1.7 1.6 1.7 .4 1.7 1.1 1.7 .7 1.7-.9 1.7-1.5 1.7-2 1.6-1.5 1.7-.2 1.7 0 1.7 1.6 1.7 2.4 1.7 .9 1.7 .9 1.7-.7 1.7 .3 1.7 1 1.7 1.3 1.7-.2 1.6-.8 1.7 .9 1.7-1.6 1.7 0 1.7-.1 1.7 .2 1.7-1.5 1.7-1.3 1.7-.6 1.7 1 1.7 .7 1.6 1.3 1.7 .4 1.7-.5 1.7-2.6 1.7-2.2 1.7-.7 1.7 1.1 1.7 1.8 1.7 1.7 1.7-.1 1.7-1.3 1.6-1.5 1.7-1.2 1.7-.8 1.7 .9 1.7 .7 1.7 1.9 1.7 2.3 1.7 .7 1.7-.1 1.7-1.1 1.7-2.1 1.6-3.2 1.7-1.6 1.7-1.2 1.7 .1" stroke="#8c564b" stroke-width="0.5" fill="none" stroke-opacity="0.4" stroke-linejoin="round"/>
<path d="M174.5 480.6l1.7-.7 1.7-.1 1.7 .1 1.7 2.8 1.7 2.9 1.6 4.1 1.7 3.4 1.7 1.3 1.7 .4 1.7-1.7 1.7-.5 1.7-1.5 1.7 .5 1.7 .6 1.7 1.5 1.7 1.8 1.6 .3 1.7 1.7 1.7 .5 1.7 .1 1.7-1.7 1.7-1 1.7-1 1.7 0 1.7 .5 1.7 2.5 1.7 2.1 1.7 1.6 1.6 .9 1.7 0 1.7-.7 1.7-.8 1.7-.7 1.7-1 1.7-1.2 1.7 .8 1.7 1.7 1.7 1.1 1.7-.1 1.6 1.5 1.7-.5 1.7-.6 1.7-2.4 1.7-1.5 1.7-1.1 1.7 0 1.7-1.4 1.7 2 1.7 .1 1.7 .2 1.6 .5 1.7 2.1 1.7 1.2 1.7 .1 1.7-1.6 1.7-2.2 1.7-.8 1.7-1.6 1.7 .6 1.7 .7 1.7 1 1.6 1 1.7 .4 1.7-.5 1.7 .6" stroke="#e377c2" stroke-width="0.5" fill="none" stroke-opacity="0.4" stroke-linejoin="round"/>
<path d="M174.5 485.9l1.7-1.2 1.7-1.2 1.7-.5 1.7-.3 1.7 1.6 1.6 .3 1.7 1.2 1.7 .1 1.7 3.4 1.7 2.1 1.7 1.6 1.7 1.3 1.7 .4 1.7 .6 1.7 1 1.7 1.5 1.6 0 1.7 1.8 1.7-.5 1.7-.3 1.7-1.7 1.7 .3 1.7 .4 1.7-.6 1.7-.4 1.7 1.7 1.7 .8 1.7-2.1 1.6-1.6 1.7-1.3 1.7-.3 1.7-.8 1.7 1.6 1.7 .4 1.7-.4 1.7-2 1.7 1 1.7 1.5 1.7 2 1.6 1.6 1.7 0 1.7-.9 1.7-2.6 1.7-.7 1.7-.2 1.7 .3 1.7-.6 1.7-.1 1.7-1.5 1.7 .8 1.6-.3 1.7 .6 1.7-.6 1.7 .8 1.7 .4 1.7 1.4 1.7 .6 1.7 .4 1.7-.2 1.7-.8 1.7 0 1.6-.5 1.7-.3 1.7-.2 1.7 .3" stroke="#2ca02c" stroke-width="0.5" fill="none" stroke-opacity="0.4" stroke-linejoin="round"/>
<path d="M174.5 486.2l1.7-.9 1.7-.9 1.7 .9 1.7 1.6 1.7 2.1 1.6 1.4 1.7 1.2 1.7 .5 1.7 0 1.7-.2 1.7 .4 1.7-.1 1.7 1.6 1.7-.2 1.7 .4 1.7 .2 1.6 .2 1.7-.7 1.7 0 1.7-1.1 1.7-.5 1.7 .2 1.7 2.1 1.7 .1 1.7 1.1 1.7 .2 1.7 1.7 1.7 0 1.6 .2 1.7 1.5 1.7 .2 1.7-.9 1.7-.5 1.7 .2 1.7-.6 1.7-1.6 1.7 0 1.7 1.2 1.7-.2 1.6 .8 1.7 .9 1.7 .9 1.7-1.1 1.7 1.4 1.7-.2 1.7-.8 1.7-.1 1.7 .3 1.7 .1 1.7-.9 1.6-1.3 1.7-.3 1.7-.4 1.7 .6 1.7 1.2 1.7 .5 1.7 .1 1.7 .1 1.7-.2 1.7-.8 1.7 .2 1.6 .5 1.7-.9 1.7-1.3 1.7-.9" stroke="#1f77b4" stroke-width="0.5" fill="none" stroke-opacity="0.4" stroke-linejoin="round"/>
<path d="M174.5 487.2l1.7 .1 1.7 1.5 1.7 .9 1.7-1.2 1.7-1.1 1.6 .1 1.7 2.1 1.7 2.8 1.7 3.1 1.7 3.7 1.7 1.8 1.7 1.4 1.7-.4 1.7-.1 1.7-.8 1.7-1.4 1.6-.9 1.7-.4 1.7 .1 1.7 .9 1.7 0 1.7-1.6 1.7-2 1.7-3 1.7-1.4 1.7-.8 1.7 1.9 1.7 1.7 1.6 3.3 1.7 1.3 1.7 1.9 1.7-.6 1.7-.3 1.7-1.8 1.7-.5 1.7-1.1 1.7 .6 1.7 .1 1.7 1.2 1.6-.3 1.7-.8 1.7-.7 1.7-.5 1.7 .9 1.7 .4 1.7 .7 1.7-1 1.7-.5 1.7-1.1 1.7 .3 1.6 1.2 1.7 0 1.7 .5 1.7-1 1.7-.4 1.7 0 1.7 .2 1.7 .5 1.7-.6 1.7-.2 1.7-.3 1.6 .3 1.7-.2 1.7-.3 1.7 .2" stroke="#d62728" stroke-width="0.5" fill="none" stroke-opacity="0.4" stroke-linejoin="round"/>
<path d="M174.5 478.3l1.7-3.2 1.7-2.7 1.7 0 1.7 .6 1.7 3.3 1.6 3.9 1.7 4.2 1.7 3.9 1.7 3.5 1.7 2.4 1.7 1.9 1.7 .8 1.7 .4 1.7 .4 1.7-1.2 1.7-1.5 1.6 .2 1.7 .1 1.7-.3 1.7-.2 1.7 1 1.7 .4 1.7 2.2 1.7 1 1.7 2.3 1.7 .2 1.7 .7 1.7-.1 1.6-.3 1.7-1 1.7-.9 1.7-1.3 1.7-.3 1.7-.3 1.7 .5 1.7 .8 1.7 .9 1.7 1.2 1.7 .2 1.6-1.1 1.7-1.4 1.7-1 1.7-.2 1.7 .5 1.7 .4 1.7 .8 1.7 .6 1.7-1 1.7-.9 1.7-.3 1.6-.1 1.7-1.6 1.7-.6 1.7-1.2 1.7 .9 1.7 .8 1.7 1.8 1.7 1.4 1.7 1.1 1.7 0 1.7 1.5 1.6-.4 1.7-.7 1.7-2.3 1.7-1.3" stroke="#8c564b" stroke-width="0.5" fill="none" stroke-opacity="0.4" stroke-linejoin="round"/>
<path d="M174.5 477.4l1.7-1 1.7 1.3 1.7 2.6 1.7 3.1 1.7 2.1 1.6 3.7 1.7 3.4 1.7 1.2 1.7 0 1.7 .7 1.7 2.6 1.7-.1 1.7 2.4 1.7 .2 1.7 .6 1.7-2.3 1.6 .7 1.7 2.5 1.7 2.4 1.7 .9 1.7-1.1 1.7-.4 1.7-1.3 1.7-1 1.7-.6 1.7 .1 1.7 .4 1.7 1.1 1.6 .5 1.7 2.1 1.7 .7 1.7 1.3 1.7-.1 1.7-.7 1.7-3.2 1.7-1.1 1.7-2.3 1.7-.7 1.7 .4 1.6 1 1.7 .6 1.7 .2 1.7-2.3 1.7-1.7 1.7-1 1.7 0 1.7 .8 1.7 1 1.7-.3 1.7-.1 1.6-1.5 1.7-.9 1.7-.1 1.7 1.8 1.7 1.4 1.7 2.2 1.7 1 1.7 1.2 1.7-.1 1.7-.7 1.7-1.5 1.6-2.9 1.7-3.5 1.7-3.8 1.7-1.6" stroke="#bcbd22" stroke-width="0.5" fill="none" stroke-opacity="0.4" stroke-linejoin="round"/>
<path d="M174.5 494.5l1.7-1.9 1.7-2.3 1.7-.4 1.7-.3 1.7 .5 1.6-.4 1.7 .9 1.7-.1 1.7 2.1 1.7-.3 1.7 1.5 1.7-.1 1.7 .6 1.7 .3 1.7 1.3 1.7 .1 1.6 .5 1.7 .2 1.7 .3 1.7 1 1.7 1.2 1.7 1.2 1.7 .7 1.7-1.3 1.7-.9 1.7-.7 1.7-1.1 1.7-.5 1.6 .1 1.7-.1 1.7-.2 1.7 .6 1.7-1.1 1.7 .5 1.7-.4 1.7-.2 1.7-1.5 1.7-.7 1.7-.2 1.6 0 1.7 .3 1.7 .4 1.7 1.8 1.7 1.3 1.7 1.1 1.7-.6 1.7-.9 1.7-.6 1.7 .3 1.7 1.1 1.6 .8 1.7 .2 1.7 .9 1.7 1.3 1.7 1 1.7 1.7 1.7 1 1.7-1.1 1.7-1.9 1.7-2 1.7-1 1.6-1.1 1.7-.5 1.7-.1 1.7 .4" stroke="#bcbd22" stroke-width="0.5" fill="none" stroke-opacity="0.4" stroke-linejoin="round"/>
<path d="M174.5 477.4l1.7-.7 1.7 1.2 1.7 2.7 1.7 3.1 1.7 4.3 1.6 3.7 1.7 5.7 1.7 3.9 1.7 3.1 1.7 .6 1.7-.3 1.7-1.4 1.7-1.7 1.7-2.7 1.7-.9 1.7-.9 1.6 1.7 1.7 1.5 1.7 3.6 1.7 1.5 1.7 1.5 1.7-2 1.7-1.8 1.7-1.3 1.7-1.6 1.7 0 1.7-1 1.7-.3 1.6-1.6 1.7 .4 1.7-.4 1.7 1.5 1.7-.4 1.7 1.9 1.7-.3 1.7-.3 1.7-1 1.7-1.2 1.7-.7 1.6-.7 1.7 .5 1.7-.7 1.7 0 1.7 .1 1.7 1.4 1.7 1.3 1.7 1.3 1.7 1.5 1.7 1.4 1.7-.2 1.6-1.6 1.7-2 1.7-1.1 1.7-1.7 1.7-1.2 1.7 2.5 1.7 3.1 1.7 2.4 1.7-.6 1.7-1.4 1.7-2.4 1.6-1.9 1.7 .2 1.7 2.6 1.7 3" stroke="#ff7f0e" stroke-width="0.5" fill="none" stroke-opacity="0.4" stroke-linejoin="round"/>
<path d="M174.5 510.1l1.7-3.4 1.7-4.1 1.7-4.8 1.7-6.1 1.7-4.4 1.6-3.2 1.7 1.1 1.7 3 1.7 4.6 1.7 8.6 1.7 9.6 1.7 6.8 1.7 2.5 1.7 .1 1.7-2.7 1.7-5.1 1.6-4.3 1.7-2.9 1.7-.4 1.7 1 1.7-.5 1.7-1.4 1.7 2.2 1.7 1.2 1.7 2.2 1.7 4.1 1.7 3.6 1.7 .4 1.6-2.7 1.7-4.5 1.7-8.2 1.7-7 1.7-6.2 1.7-1.1 1.7 1.4 1.7 4.6 1.7 3.2 1.7 3 1.7 1.1 1.6-2.7 1.7-2.2 1.7-3.7 1.7-4.2 1.7-3.6 1.7 1.7 1.7 2 1.7 6.4 1.7 6.6 1.7 6 1.7 2 1.6-1.1 1.7-3.6 1.7-5.4 1.7-5.3 1.7-3.2 1.7-1.9 1.7 .9 1.7 2.3 1.7-.4 1.7 .2 1.7-2 1.6-4 1.7-5.8 1.7-3.1 1.7-4" stroke="#1f77b4" stroke-width="0.5" fill="none" stroke-opacity="0.4" stroke-linejoin="round"/>
<path d="M174.5 491.8l1.7-2.4 1.7-1.5 1.7-.8 1.7 .9 1.7 .5 1.6 1.1 1.7 1.6 1.7 1.9 1.7 1.6 1.7 2.3 1.7 1.6 1.7 .8 1.7-1.2 1.7-.9 1.7-.9 1.7 .2 1.6-.1 1.7 1.7 1.7-1.2 1.7-.9 1.7-2.4 1.7-.6 1.7-.9 1.7 2.3 1.7 1.5 1.7 3.1 1.7 3 1.7 .1 1.6 1.6 1.7 0 1.7 .7 1.7-1.6 1.7-.6 1.7-1.8 1.7-2.6 1.7-2.4 1.7-.8 1.7 2 1.7-1.2 1.6 0 1.7 1.2 1.7 3.8 1.7 .8 1.7 2 1.7 .4 1.7 .6 1.7-1.1 1.7 .2 1.7-.5 1.7 1.9 1.6-1 1.7-.1 1.7-2.3 1.7-.1 1.7-.9 1.7 .5 1.7 .9 1.7 1.5 1.7 1.5 1.7 1.8 1.7 1 1.6 1 1.7-.1 1.7 .5 1.7-1.1" stroke="#ff7f0e" stroke-width="0.5" fill="none" stroke-opacity="0.4" stroke-linejoin="round"/>
<path d="M174.5 487.7l1.7-1 1.7-.2 1.7 .5 1.7 .9 1.7 1.6 1.6 1.6 1.7 1.9 1.7 2.6 1.7 1.1 1.7 .4 1.7-.4 1.7 .4 1.7 .1 1.7 .6 1.7 2 1.7 .6 1.6 1.7 1.7 .7 1.7-.4 1.7-1.4 1.7-2.2 1.7-1.2 1.7-1 1.7-.3 1.7 .4 1.7 1.4 1.7 1.2 1.7 1.7 1.6 1.9 1.7-.3 1.7-1.8 1.7-1.2 1.7-.8 1.7-.9 1.7-1 1.7 .1 1.7 0 1.7 .2 1.7 .3 1.6 1.6 1.7 1.2 1.7 2 1.7 .3 1.7 .9 1.7-1.2 1.7-1.6 1.7-2.2 1.7-.6 1.7-.1 1.7 .3 1.6 .5 1.7 .8 1.7 .7 1.7 .2 1.7 .5 1.7 .2 1.7 .3 1.7-.6 1.7 .3 1.7 .5 1.7 .3 1.6-.8 1.7-.6 1.7-1.2 1.7-1.2" stroke="#ff7f0e" stroke-width="0.5" fill="none" stroke-opacity="0.4" stroke-linejoin="round"/>
<path d="M174.5 490.9l1.7-1.2 1.7-1 1.7-.2 1.7-.3 1.7 1.7 1.6 1.4 1.7 1.8 1.7 2.1 1.7 3.8 1.7 1 1.7 .8 1.7-1.4 1.7-.1 1.7-.8 1.7 .6 1.7 2 1.6 3.4 1.7 1.9 1.7 .1 1.7-.4 1.7-.7 1.7-.3 1.7-.7 1.7-.4 1.7 .2 1.7 .6 1.7 .8 1.7 .6 1.6 .2 1.7-.8 1.7-2.3 1.7-3.1 1.7-2.7 1.7-1.3 1.7-.5 1.7 .6 1.7 1.2 1.7 1.6 1.7 1.3 1.6 3.2 1.7 2.4 1.7 1.7 1.7-.4 1.7-.8 1.7-2.5 1.7-3.8 1.7-2.3 1.7-1.9 1.7-.3 1.7 1.2 1.6 1 1.7 2.4 1.7 2.2 1.7 2.1 1.7 .4 1.7 .3 1.7-1.5 1.7-.9 1.7-2 1.7-2.2 1.7-1.2 1.6-.9 1.7-1 1.7 .5 1.7-.2" stroke="#d62728" stroke-width="0.5" fill="none" stroke-opacity="0.4" stroke-linejoin="round"/>
<path d="M174.5 489.1l1.7-4.3 1.7-5.5 1.7-2.1 1.7 .4 1.7 3.4 1.6 1.5 1.7 3.9 1.7 3.5 1.7 4 1.7 2.2 1.7 .7 1.7 1.5 1.7-.1 1.7-.1 1.7 2.9 1.7 2.3 1.6 .8 1.7-1 1.7 .3 1.7-3.1 1.7-1.5 1.7-1.2 1.7 1.6 1.7 1.5 1.7 1.5 1.7 1.7 1.7 2.5 1.7-.1 1.6-.7 1.7-1.6 1.7-2.2 1.7-2.9 1.7-1 1.7 .1 1.7 4 1.7 1.7 1.7 .8 1.7-.4 1.7-.5 1.6-4 1.7-2.5 1.7-2.6 1.7-.8 1.7 0 1.7 1.1 1.7 2.7 1.7 2.1 1.7-.1 1.7-1.3 1.7-1.3 1.6-2.8 1.7-.9 1.7-.7 1.7-1 1.7-1.9 1.7-1.6 1.7-2.4 1.7-1 1.7-.6 1.7 1.6 1.7 2.8 1.6 4 1.7 3.9 1.7 3.7 1.7 2" stroke="#ff7f0e" stroke-width="0.5" fill="none" stroke-opacity="0.4" stroke-linejoin="round"/>
<path d="M174.5 487.9l1.7-2 1.7-.6 1.7 .1 1.7 1.4 1.7 1.3 1.6 2.7 1.7 1.3 1.7 .3 1.7 0 1.7 1.6 1.7 1.5 1.7 .9 1.7 .7 1.7 .4 1.7 .3 1.7 .3 1.6 .9 1.7 .3 1.7 0 1.7-.6 1.7-.7 1.7 0 1.7 .4 1.7 1.8 1.7 2.4 1.7 .3 1.7 .3 1.7-1 1.6-1.9 1.7-2.1 1.7-.6 1.7-.8 1.7-1.4 1.7-.1 1.7-.4 1.7 .6 1.7 1.2 1.7 1.9 1.7 2 1.6 .9 1.7 .4 1.7-2 1.7-1.2 1.7-.4 1.7 .1 1.7-.3 1.7 .3 1.7-.2 1.7 .8 1.7-.8 1.6 .3 1.7 .5 1.7 .4 1.7-.9 1.7 .9 1.7 .1 1.7 .1 1.7-.7 1.7 .6 1.7 .5 1.7 .8 1.6-.6 1.7-.9 1.7-1.2 1.7-.8" stroke="#7f7f7f" stroke-width="0.5" fill="none" stroke-opacity="0.4" stroke-linejoin="round"/>
<path d="M174.5 488.8l1.7-.8 1.7-1.1 1.7 .3 1.7 1.1 1.7 2.5 1.6 2.3 1.7 2.9 1.7 1.9 1.7 1.2 1.7 .7 1.7 1.3 1.7-.1 1.7 .3 1.7-1 1.7 .8 1.7-.2 1.6-.2 1.7 0 1.7 .3 1.7 .3 1.7 .6 1.7-.7 1.7-.6 1.7-.5 1.7 .2 1.7-1.8 1.7 1.2 1.7 0 1.6 .5 1.7-.8 1.7 .7 1.7-.1 1.7 .3 1.7-.4 1.7 1 1.7 .4 1.7-.8 1.7-1.6 1.7 .3 1.6 .8 1.7 .9 1.7 2 1.7 1 1.7-.4 1.7-1.2 1.7-1.3 1.7-1 1.7 .1 1.7-.6 1.7-.9 1.6 .4 1.7 .1 1.7-.2 1.7 .5 1.7 .6 1.7 .5 1.7 .4 1.7 .4 1.7-.4 1.7 .1 1.7 .1 1.6 1.1 1.7 1.8 1.7 2.3 1.7 1.9" stroke="#17becf" stroke-width="0.5" fill="none" stroke-opacity="0.4" stroke-linejoin="round"/>
<path d="M174.5 468.9l1.7-1.8 1.7 .8 1.7 2.6 1.7 3.9 1.7 4.7 1.6 5.4 1.7 4 1.7 .2 1.7-.5 1.7-.6 1.7-1 1.7-.6 1.7 1.8 1.7 1.3 1.7 2 1.7 2 1.6 3.1 1.7 2.4 1.7 .8 1.7 .3 1.7 1 1.7 .6 1.7 .6 1.7-1 1.7 .1 1.7 .3 1.7 .2 1.7-.8 1.6-.3 1.7 .3 1.7-1.1 1.7-1.4 1.7-1.7 1.7 1.7 1.7 .9 1.7 1.6 1.7-.1 1.7-.8 1.7-3.2 1.6-1.9 1.7-2.6 1.7 .6 1.7 1.6 1.7 1.4 1.7 .6 1.7 2 1.7 .5 1.7-.5 1.7-.8 1.7-.3 1.6-.6 1.7-.5 1.7-1.1 1.7 .6 1.7 1.9 1.7 0 1.7 .2 1.7-.4 1.7-.8 1.7-1.9 1.7-.3 1.6 0 1.7 1 1.7 .4 1.7 .4" stroke="#bcbd22" stroke-width="0.5" fill="none" stroke-opacity="0.4" stroke-linejoin="round"/>
<path d="M174.5 486.5l1.7-1.6 1.7-.7 1.7-.3 1.7 .8 1.7 1 1.6 1.7 1.7 1.1 1.7 2.1 1.7 1.3 1.7 1.7 1.7 .6 1.7 2.8 1.7 .1 1.7 .5 1.7-1.4 1.7 .6 1.6-.8 1.7 .9 1.7-.5 1.7 1.7 1.7 1.5 1.7 1.6 1.7 .7 1.7-.2 1.7-.8 1.7-.3 1.7-.6 1.7 .9 1.6 1.4 1.7 2.2 1.7-.1 1.7-.1 1.7-1.9 1.7-1.6 1.7-.8 1.7-.6 1.7 .6 1.7-.1 1.7 .8 1.6-.2 1.7 .7 1.7-.3 1.7 0 1.7-.6 1.7-.3 1.7 0 1.7-.2 1.7-1.2 1.7 .1 1.7 .8 1.6 1.1 1.7 0 1.7-.6 1.7-1.5 1.7-1.6 1.7-1.6 1.7-1.7 1.7-.2 1.7 .1 1.7 1.5 1.7 .6 1.6 2.1 1.7 1.4 1.7 1.8 1.7 1" stroke="#e377c2" stroke-width="0.5" fill="none" stroke-opacity="0.4" stroke-linejoin="round"/>
<path d="M174.5 485.4l1.7-1.4 1.7-.7 1.7 .2 1.7 1.4 1.7 2.2 1.6 3.4 1.7 5.2 1.7 3.6 1.7 2.6 1.7-.3 1.7-.9 1.7-2.2 1.7-2.3 1.7-2.6 1.7-1.2 1.7 .2 1.6 .9 1.7 1.4 1.7 1.1 1.7 1.2 1.7 .4 1.7 .7 1.7 .2 1.7 1.1 1.7-2.3 1.7-1.5 1.7-1.2 1.7 1.4 1.6 2.3 1.7 2.4 1.7 2.4 1.7 .3 1.7 1.2 1.7-3.1 1.7-2.9 1.7-4.2 1.7-1.2 1.7 1 1.7 2.8 1.6 4.2 1.7 2.5 1.7 1.1 1.7-2.2 1.7-1.9 1.7-3.2 1.7-1.9 1.7-2.1 1.7-1.3 1.7 .6 1.7 1.2 1.6 3.3 1.7 5.2 1.7 4.8 1.7 .6 1.7-.5 1.7-2.3 1.7-2.6 1.7-3.1 1.7-.5 1.7-.4 1.7-.6 1.6-2.1 1.7-1.6 1.7-1.8 1.7-1.7" stroke="#ff7f0e" stroke-width="0.5" fill="none" stroke-opacity="0.4" stroke-linejoin="round"/>
<path d="M174.5 492.5l1.7 1.9 1.7 3.5 1.7 4.2 1.7 7.2 1.7 4 1.6 7.2 1.7 6.6 1.7 4.9 1.7 1.4 1.7 .3 1.7-1.5 1.7-3 1.7-3.5 1.7-5.6 1.7-4.6 1.7-2.6 1.6-3.2 1.7-1.8 1.7-.2 1.7-.2 1.7-5.5 1.7-4.5 1.7-3.9 1.7-2.3 1.7-1.5 1.7 3.3 1.7 .9 1.7 2 1.6 .9 1.7 3.2 1.7-.8 1.7 .3 1.7-3.7 1.7-1.3 1.7-1.2 1.7-3 1.7-.9 1.7-1.8 1.7-2.1 1.6-1.4 1.7 .5 1.7-.4 1.7 3.7 1.7 1.3 1.7-2.6 1.7-.9 1.7-2.5 1.7-4.2 1.7-4.8 1.7-2.4 1.6-3 1.7 3 1.7 2.1 1.7 4.1 1.7 5.9 1.7 7.9 1.7 8.2 1.7 7.1 1.7 3.9 1.7 0 1.7 .1 1.6-2.2 1.7-.4 1.7 3.3 1.7 3.2" stroke="#17becf" stroke-width="0.5" fill="none" stroke-opacity="0.4" stroke-linejoin="round"/>
<path d="M174.5 478.9l1.7-.4 1.7 1.8 1.7 1.1 1.7-.1 1.7-1 1.6 .6 1.7 1.5 1.7 2.8 1.7 2.5 1.7 3.7 1.7 5.1 1.7 1.7 1.7 .9 1.7 1 1.7 0 1.7-1.6 1.6-.1 1.7-.5 1.7-1.5 1.7 0 1.7-.2 1.7 1 1.7-.6 1.7 .7 1.7-.3 1.7 0 1.7-1 1.7 2.1 1.6 .4 1.7 .8 1.7-.3 1.7 1.1 1.7-1.7 1.7 0 1.7 .6 1.7 2.6 1.7 .7 1.7 1.3 1.7-1.4 1.6-1.4 1.7-1.7 1.7 1 1.7 .6 1.7 1.2 1.7 .9 1.7 1.4 1.7-1.1 1.7-1.6 1.7-2.2 1.7-.3 1.6-1.3 1.7 0 1.7-1.6 1.7 .5 1.7-1.6 1.7-.1 1.7-.3 1.7 2 1.7-.1 1.7 1.6 1.7-.7 1.6 1.2 1.7 .2 1.7 1.7 1.7-.3" stroke="#d62728" stroke-width="0.5" fill="none" stroke-opacity="0.4" stroke-linejoin="round"/>
<path d="M174.5 475.2l1.7 .3 1.7 .8 1.7 .3 1.7 .8 1.7 1 1.6 2.4 1.7 2.5 1.7 3.3 1.7 2.7 1.7 3.2 1.7 1.8 1.7 1.8 1.7 1 1.7 .5 1.7-.3 1.7-1.2 1.6-1.3 1.7-.9 1.7-.5 1.7 1.2 1.7 1.3 1.7 1.9 1.7 .5 1.7 .3 1.7 .2 1.7 .1 1.7-1 1.7 .4 1.6 0 1.7 1 1.7-1.2 1.7 .1 1.7 .2 1.7 1 1.7 .4 1.7 1.3 1.7 .2 1.7-.7 1.7-.7 1.6-2.3 1.7-1.5 1.7-.9 1.7-.6 1.7-.8 1.7-.2 1.7-2 1.7-.6 1.7 .4 1.7 .5 1.7 1.7 1.6 2.5 1.7 2.3 1.7 2.1 1.7 .5 1.7-.4 1.7-.8 1.7-1.1 1.7-.6 1.7-.8 1.7 .7 1.7-.9 1.6 .2 1.7-2.1 1.7-2.1 1.7-2.2" stroke="#e377c2" stroke-width="0.5" fill="none" stroke-opacity="0.4" stroke-linejoin="round"/>
<path d="M174.5 487.8l1.7-.9 1.7 .6 1.7 2.5 1.7 3.1 1.7 3.2 1.6 2.4 1.7-.1 1.7-1.3 1.7-.9 1.7 1.2 1.7 .8 1.7 2.7 1.7 .9 1.7 .2 1.7-1.5 1.7-.2 1.6-1.2 1.7-.6 1.7-1.2 1.7-1.4 1.7-1.9 1.7 .9 1.7 1.3 1.7 2.2 1.7 1.6 1.7 .8 1.7 0 1.7-.4 1.6 .1 1.7 0 1.7 1.7 1.7 .8 1.7 .5 1.7-.2 1.7 1.5 1.7 .7 1.7-.5 1.7 .1 1.7 1.3 1.6 .4 1.7-.2 1.7-1 1.7-1.2 1.7-2.8 1.7-1.3 1.7 .7 1.7 1 1.7-.1 1.7 .2 1.7 .1 1.6 .8 1.7 .9 1.7 2.5 1.7 1 1.7-.5 1.7-3.3 1.7-2.4 1.7-1.3 1.7 .1 1.7-.2 1.7 1.2 1.6 .8 1.7 1.3 1.7 .1 1.7 .9" stroke="#d62728" stroke-width="0.5" fill="none" stroke-opacity="0.4" stroke-linejoin="round"/>
<path d="M174.5 477.4l1.7 1.4 1.7 2.8 1.7 2.3 1.7 2.7 1.7 3.3 1.6 3.1 1.7 .4 1.7-.7 1.7-1.2 1.7 1 1.7 .1 1.7 2.2 1.7 1.3 1.7 .9 1.7-.1 1.7 0 1.6-.8 1.7-.9 1.7-2 1.7-.9 1.7-.2 1.7 .6 1.7 1.7 1.7 2.8 1.7 1.1 1.7 1.6 1.7 .1 1.7-.2 1.6-.2 1.7-1 1.7-.2 1.7 0 1.7 1 1.7 .4 1.7 2.4 1.7-1.1 1.7-1.5 1.7-2.4 1.7-2.2 1.6-2 1.7 .9 1.7 1.4 1.7 2.1 1.7 1.4 1.7 2 1.7-.8 1.7-2.5 1.7-2.5 1.7-1.5 1.7 .9 1.6 2.2 1.7 3.8 1.7 .8 1.7-.1 1.7-1.5 1.7-1.5 1.7-1.4 1.7 0 1.7 1.2 1.7-.3 1.7-3.2 1.6-3.2 1.7-4.4 1.7-4.8 1.7-3.3" stroke="#9467bd" stroke-width="0.5" fill="none" stroke-opacity="0.4" stroke-linejoin="round"/>
<polygon points="174.5,483 176.2,481.1 177.9,480.1 179.6,480 181.3,481 183,482.8 184.6,485.2 186.3,487.7 188,490 189.7,492 191.4,493.6 193.1,494.8 194.8,495.5 196.5,496 198.2,496.3 199.9,496.5 201.6,496.7 203.2,496.8 204.9,496.9 206.6,497 208.3,497.1 210,497.1 211.7,497.2 213.4,497.3 215.1,497.4 216.8,497.5 218.5,497.6 220.2,497.7 221.9,497.7 223.5,497.8 225.2,497.8 226.9,497.8 228.6,497.8 230.3,497.8 232,497.8 233.7,497.8 235.4,497.7 237.1,497.7 238.8,497.6 240.5,497.5 242.1,497.4 243.8,497.3 245.5,497.2 247.2,497.1 248.9,497 250.6,496.9 252.3,496.9 254,496.8 255.7,496.7 257.4,496.6 259.1,496.6 260.7,496.6 262.4,496.5 264.1,496.5 265.8,496.5 267.5,496.5 269.2,496.6 270.9,496.6 272.6,496.7 274.3,496.7 276,496.8 277.7,496.9 279.3,497 281,497.1 282.7,497.2 284.4,497.3 284.4,498.9 282.7,498.8 281,498.7 279.3,498.6 277.7,498.5 276,498.4 274.3,498.3 272.6,498.3 270.9,498.2 269.2,498.1 267.5,498.1 265.8,498.1 264.1,498.1 262.4,498.1 260.7,498.1 259.1,498.2 257.4,498.2 255.7,498.3 254,498.3 252.3,498.4 250.6,498.5 248.9,498.6 247.2,498.7 245.5,498.8 243.8,498.9 242.1,499 240.5,499.1 238.8,499.2 237.1,499.2 235.4,499.3 233.7,499.3 232,499.4 230.3,499.4 228.6,499.4 226.9,499.4 225.2,499.4 223.5,499.3 221.9,499.3 220.2,499.2 218.5,499.2 216.8,499.1 215.1,499 213.4,498.9 211.7,498.8 210,498.7 208.3,498.6 206.6,498.5 204.9,498.4 203.2,498.3 201.6,498.2 199.9,498.1 198.2,497.9 196.5,497.6 194.8,497.1 193.1,496.3 191.4,495.2 189.7,493.6 188,491.6 186.3,489.2 184.6,486.7 183,484.4 181.3,482.6 179.6,481.6 177.9,481.6 176.2,482.7 174.5,484.6" fill="#f0326a" fill-opacity="0.95"/>
<path d="M174.5 447.5V525.8" stroke="#f25c86" stroke-width="1.100" stroke-dasharray="4.400 1.800" fill="none"/>
</g>
<rect x="168.3" y="447" width="121.5" height="78.8" fill="none" stroke="#222" stroke-width=".8"/>
<path d="M174.5 525.8v2.200M197.4 525.8v2.200M220.3 525.8v2.200M243.2 525.8v2.200M266.1 525.8v2.200M289 525.8v2.200M168.3 525.8h-2.200M168.3 499.6h-2.200M168.3 473.4h-2.200M168.3 447.2h-2.200" stroke="#222" stroke-width=".6" fill="none"/>
<g font-size="7"><text x="174.5" y="534.1" text-anchor="middle">0</text><text x="197.4" y="534.1" text-anchor="middle">5</text><text x="220.3" y="534.1" text-anchor="middle">10</text><text x="243.2" y="534.1" text-anchor="middle">15</text><text x="266.1" y="534.1" text-anchor="middle">20</text><text x="289" y="534.1" text-anchor="middle">25</text><text x="165.1" y="528.2" text-anchor="end">−0.04</text><text x="165.1" y="502" text-anchor="end">0.00</text><text x="165.1" y="475.8" text-anchor="end">0.04</text><text x="165.1" y="449.6" text-anchor="end">0.08</text><text x="222.3" y="542.3" text-anchor="middle">Time (h)</text></g>
<rect x="239.8" y="449" width="48" height="21.4" rx="1" fill="#fff" fill-opacity=".8" stroke="#ccc" stroke-width=".5"/>
<g font-size="5.75"><path d="M242.3 452h7.5" stroke="#f2557f" stroke-width=".8" stroke-dasharray="2.800 1.200"/><text x="252.3" y="453.9">Drug addition</text><rect x="242.3" y="457" width="7.5" height="3.400" fill="#f8a9c0"/><text x="252.3" y="460.6">Mean±SD</text><rect x="242.3" y="463.7" width="7.5" height="3.400" fill="#f2457a"/><text x="252.3" y="467.3">Mean±SEM</text></g>
<clipPath id="c5"><rect x="63.6" y="549.8" width="178.2" height="115.7"/></clipPath>
<rect x="63.6" y="549.8" width="178.2" height="115.7" fill="#fff"/>
<g clip-path="url(#c5)">
<polygon points="71.9,585.4 73.6,585 75.3,584.8 77,584.5 78.7,584.2 80.4,584.5 82.1,584.3 83.7,584 85.4,584 87.1,584.1 88.8,583.9 90.5,583.7 92.2,583.7 93.9,583.7 95.6,583.9 97.3,583.7 99,583.5 100.7,583.9 102.4,584.2 104.1,584.2 105.8,584.3 107.4,584.3 109.1,584.6 110.8,584.7 112.5,584.4 114.2,584.4 115.9,584.4 117.6,584.5 119.3,584.3 121,584.2 122.7,583.8 124.4,583.9 126.1,584 127.8,583.8 129.4,583.8 131.1,584 132.8,584.4 134.5,584.5 136.2,584.4 137.9,584.4 139.6,584.4 141.3,584.1 143,584.1 144.7,583.9 146.4,584.1 148.1,584 149.8,583.8 151.4,583.9 153.1,584.1 154.8,584.2 156.5,584 158.2,583.9 159.9,584.2 161.6,584.1 163.3,584.3 165,584.2 166.7,584.1 168.4,584 170.1,584.2 171.8,584.1 173.4,584.1 175.1,584.1 176.8,583.9 178.5,584.1 180.2,584.3 181.9,584.3 183.6,584 185.3,584.3 187,584.1 188.7,584.2 190.4,583.8 192.1,583.6 193.8,583.8 195.5,584.2 197.1,583.9 198.8,584 200.5,584.1 202.2,584.2 203.9,584.3 205.6,584 207.3,583.9 209,583.9 210.7,583.9 212.4,583.5 214.1,583.5 215.8,583.2 217.5,582.9 219.1,582.5 220.8,582.1 222.5,581.5 224.2,581.2 225.9,581.1 227.6,581 229.3,580.9 231,581.2 232.7,581.5 234.4,581.8 234.4,594.8 232.7,595.1 231,595.4 229.3,595.7 227.6,595.6 225.9,595.5 224.2,595.4 222.5,595.1 220.8,594.5 219.1,594.1 217.5,593.7 215.8,593.4 214.1,593.1 212.4,593.1 210.7,592.7 209,592.7 207.3,592.7 205.6,592.6 203.9,592.3 202.2,592.4 200.5,592.5 198.8,592.6 197.1,592.7 195.5,592.4 193.8,592.8 192.1,593 190.4,592.8 188.7,592.4 187,592.5 185.3,592.3 183.6,592.6 181.9,592.3 180.2,592.3 178.5,592.5 176.8,592.7 175.1,592.5 173.4,592.5 171.8,592.5 170.1,592.4 168.4,592.6 166.7,592.5 165,592.4 163.3,592.3 161.6,592.5 159.9,592.4 158.2,592.7 156.5,592.6 154.8,592.4 153.1,592.5 151.4,592.7 149.8,592.8 148.1,592.6 146.4,592.5 144.7,592.7 143,592.5 141.3,592.5 139.6,592.2 137.9,592.2 136.2,592.2 134.5,592.1 132.8,592.2 131.1,592.6 129.4,592.8 127.8,592.8 126.1,592.6 124.4,592.7 122.7,592.8 121,592.4 119.3,592.3 117.6,592.1 115.9,592.2 114.2,592.2 112.5,592.2 110.8,591.9 109.1,592 107.4,592.3 105.8,592.3 104.1,592.4 102.4,592.4 100.7,592.7 99,593.1 97.3,592.9 95.6,592.7 93.9,592.9 92.2,592.9 90.5,592.9 88.8,592.7 87.1,592.5 85.4,592.6 83.7,592.6 82.1,592.3 80.4,592.1 78.7,592.4 77,592.1 75.3,591.8 73.6,591.6 71.9,591.2" fill="#7cc8ee" fill-opacity="0.55"/>
<path d="M71.9 588.3l1.7 0 1.7 0 1.7 0 1.7 0 1.7 0 1.7 0 1.6 0 1.7 0 1.7 0 1.7 0 1.7 0 1.7 0 1.7 0 1.7 0 1.7 0 1.7 0 1.7 0 1.7 0 1.7 0 1.7 0 1.6 0 1.7 0 1.7 0 1.7 0 1.7 0 1.7 0 1.7 0 1.7 0 1.7 0 1.7 0 1.7 0 1.7 0 1.7 0 1.6 0 1.7 0 1.7 0 1.7 0 1.7 0 1.7 0 1.7 0 1.7 0 1.7 0 1.7 0 1.7 0 1.7 0 1.7 0 1.6 0 1.7 0 1.7 0 1.7 0 1.7 0 1.7 0 1.7 0 1.7 0 1.7 0 1.7 0 1.7 0 1.7 0 1.7 0 1.6 0 1.7 0 1.7 0 1.7 0 1.7 0 1.7 0 1.7 0 1.7 0 1.7 0 1.7 0 1.7 0 1.7 0 1.7 0 1.7 0 1.6 0 1.7 0 1.7 0 1.7 0 1.7 0 1.7 0 1.7 0 1.7 0 1.7 0 1.7 0 1.7 0 1.7 0 1.7 0 1.6 0 1.7 0 1.7 0 1.7 0 1.7 0 1.7 0 1.7 0 1.7 0 1.7 0 1.7 0" stroke="#1f93d6" stroke-width="1" fill="none" stroke-opacity="1" stroke-linejoin="round"/>
<polygon points="71.9,597.7 73.6,595.5 75.3,592.8 77,590.9 78.7,589.7 80.4,590 82.1,591 83.7,592 85.4,595.4 87.1,601.1 88.8,608.4 90.5,614.8 92.2,620.6 93.9,626.2 95.6,630.2 97.3,634.5 99,637.9 100.7,640.9 102.4,642.5 104.1,643.9 105.8,645.4 107.4,647 109.1,648.9 110.8,649.9 112.5,651.6 114.2,653.2 115.9,654.3 117.6,655.7 119.3,656.2 121,655.9 122.7,654.4 124.4,652.6 126.1,651 127.8,648.9 129.4,647.2 131.1,646.4 132.8,646.1 134.5,645.5 136.2,645.2 137.9,645.6 139.6,646.3 141.3,647.2 143,647.9 144.7,648.4 146.4,648.6 148.1,649.3 149.8,650.5 151.4,651.5 153.1,652.4 154.8,652.9 156.5,653.2 158.2,653 159.9,652 161.6,650.7 163.3,649.4 165,648.6 166.7,647.6 168.4,646.7 170.1,646.1 171.8,645.7 173.4,645.9 175.1,646.3 176.8,646.5 178.5,647 180.2,647.4 181.9,648.9 183.6,651 185.3,652.4 187,652.8 188.7,652.6 190.4,651.9 192.1,651.5 193.8,651.3 195.5,651.5 197.1,651.8 198.8,651.6 200.5,651.5 202.2,651.7 203.9,652.7 205.6,653.7 207.3,653.9 209,653.8 210.7,654.4 212.4,654.7 214.1,654 215.8,653.6 217.5,653.6 219.1,653.3 220.8,652.7 222.5,651.8 224.2,650.9 225.9,650.3 227.6,649.4 229.3,649.1 231,649.1 232.7,649.9 234.4,650.4 234.4,656.9 232.7,656.4 231,655.6 229.3,655.6 227.6,655.9 225.9,656.7 224.2,657.4 222.5,658.2 220.8,659.2 219.1,659.8 217.5,660 215.8,660.1 214.1,660.4 212.4,661.1 210.7,660.8 209,660.3 207.3,660.3 205.6,660.1 203.9,659.1 202.2,658.2 200.5,658 198.8,658 197.1,658.3 195.5,658 193.8,657.7 192.1,658 190.4,658.4 188.7,659.1 187,659.2 185.3,658.9 183.6,657.5 181.9,655.3 180.2,653.9 178.5,653.4 176.8,653 175.1,652.8 173.4,652.4 171.8,652.1 170.1,652.6 168.4,653.1 166.7,654.1 165,655.1 163.3,655.9 161.6,657.2 159.9,658.4 158.2,659.5 156.5,659.7 154.8,659.3 153.1,658.9 151.4,657.9 149.8,657 148.1,655.8 146.4,655.1 144.7,654.9 143,654.4 141.3,653.6 139.6,652.8 137.9,652 136.2,651.7 134.5,651.9 132.8,652.6 131.1,652.9 129.4,653.7 127.8,655.4 126.1,657.5 124.4,659 122.7,660.8 121,662.4 119.3,662.6 117.6,662.2 115.9,660.7 114.2,659.7 112.5,658.1 110.8,656.3 109.1,655.4 107.4,653.5 105.8,651.9 104.1,650.4 102.4,649 100.7,647.4 99,644.4 97.3,641 95.6,636.6 93.9,632.7 92.2,627.1 90.5,621.3 88.8,614.9 87.1,607.5 85.4,601.9 83.7,598.5 82.1,597.5 80.4,596.5 78.7,596.2 77,597.4 75.3,599.3 73.6,602 71.9,604.1" fill="#f58aa8" fill-opacity="0.6"/>
<path d="M71.9 600.9l1.7-2.2 1.7-2.7 1.7-1.9 1.7-1.2 1.7 .3 1.7 1 1.6 1.1 1.7 3.3 1.7 5.7 1.7 7.4 1.7 6.3 1.7 5.9 1.7 5.5 1.7 4 1.7 4.4 1.7 3.4 1.7 2.9 1.7 1.6 1.7 1.5 1.7 1.4 1.6 1.7 1.7 1.9 1.7 .9 1.7 1.8 1.7 1.6 1.7 1 1.7 1.4 1.7 .5 1.7-.2 1.7-1.6 1.7-1.8 1.7-1.5 1.7-2.1 1.6-1.7 1.7-.8 1.7-.3 1.7-.7 1.7-.2 1.7 .3 1.7 .7 1.7 .9 1.7 .8 1.7 .4 1.7 .3 1.7 .7 1.7 1.1 1.6 1 1.7 1 1.7 .4 1.7 .3 1.7-.2 1.7-1 1.7-1.2 1.7-1.3 1.7-.9 1.7-1 1.7-.9 1.7-.5 1.7-.5 1.6 .3 1.7 .3 1.7 .2 1.7 .5 1.7 .4 1.7 1.5 1.7 2.2 1.7 1.3 1.7 .4 1.7-.2 1.7-.6 1.7-.4 1.7-.3 1.7 .3 1.6 .2 1.7-.2 1.7 0 1.7 .2 1.7 .9 1.7 1 1.7 .2 1.7 0 1.7 .5 1.7 .3 1.7-.7 1.7-.4 1.7 0 1.6-.3 1.7-.6 1.7-.9 1.7-.9 1.7-.6 1.7-.9 1.7-.2 1.7-.1 1.7 .8 1.7 .6" stroke="#ee1f5c" stroke-width="1.3" fill="none" stroke-opacity="1" stroke-linejoin="round"/>
<path d="M71.9 550.3V665.5" stroke="#f25c86" stroke-width="1.100" stroke-dasharray="4.400 1.800" fill="none"/>
</g>
<rect x="63.6" y="549.8" width="178.2" height="115.7" fill="none" stroke="#222" stroke-width=".8"/>
<path d="M71.9 665.5v2.200M105.8 665.5v2.200M139.6 665.5v2.200M173.4 665.5v2.200M207.3 665.5v2.200M241.2 665.5v2.200M63.6 665.3h-2.200M63.6 649.9h-2.200M63.6 634.5h-2.200M63.6 619.1h-2.200M63.6 603.7h-2.200M63.6 588.3h-2.200M63.6 572.9h-2.200M63.6 557.5h-2.200" stroke="#222" stroke-width=".6" fill="none"/>
<g font-size="7"><text x="71.9" y="673.8" text-anchor="middle">0</text><text x="105.8" y="673.8" text-anchor="middle">5</text><text x="139.6" y="673.8" text-anchor="middle">10</text><text x="173.4" y="673.8" text-anchor="middle">15</text><text x="207.3" y="673.8" text-anchor="middle">20</text><text x="241.2" y="673.8" text-anchor="middle">25</text><text x="60.4" y="667.7" text-anchor="end">0.0</text><text x="60.4" y="652.3" text-anchor="end">0.2</text><text x="60.4" y="636.9" text-anchor="end">0.4</text><text x="60.4" y="621.5" text-anchor="end">0.6</text><text x="60.4" y="606.1" text-anchor="end">0.8</text><text x="60.4" y="590.7" text-anchor="end">1.0</text><text x="60.4" y="575.3" text-anchor="end">1.2</text><text x="60.4" y="559.9" text-anchor="end">1.4</text><text x="162.4" y="682.5" text-anchor="middle">Time (h)</text><text transform="translate(45 612.3) rotate(-90)" text-anchor="middle">Normalized growth rate</text></g>
<rect x="158.8" y="553.4" width="79.7" height="23" rx="1" fill="#fff" fill-opacity=".8" stroke="#ccc" stroke-width=".5"/>
<g font-size="5.75"><path d="M161.3 556.4h10" stroke="#f2557f" stroke-width=".8" stroke-dasharray="2.800 1.200"/><text x="174.3" y="558.3">Drug addition</text><path d="M161.3 563.3h10" stroke="#1f93d6" stroke-width=".9"/><text x="174.3" y="565.2">Reference (Mean±SEM)</text><path d="M161.3 570.2h10" stroke="#ee1f5c" stroke-width=".9"/><text x="174.3" y="572.1">Treatment (Mean±SEM)</text></g>
<clipPath id="c6"><rect x="323.3" y="343.7" width="125.5" height="81"/></clipPath>
<rect x="323.3" y="343.7" width="125.5" height="81" fill="#fff"/>
<g clip-path="url(#c6)">
<polygon points="329.2,408.5 331.5,408.2 333.8,407.8 336.2,407.4 338.5,407 340.8,406.6 343.1,406.2 345.4,405.7 347.7,405.3 350.1,404.9 352.4,404.4 354.7,404 357,403.5 359.3,403 361.7,402.5 364,402 366.3,401.5 368.6,401 370.9,400.5 373.2,400 375.6,399.4 377.9,398.9 380.2,398.3 382.5,397.8 384.8,397.2 387.2,396.6 389.5,396 391.8,395.4 394.1,394.7 396.4,394.1 398.8,393.5 401.1,392.8 403.4,392.1 405.7,391.4 408,390.7 410.3,390 412.7,389.3 415,388.5 417.3,387.8 419.6,387 421.9,386.2 424.3,385.4 426.6,384.6 428.9,383.8 431.2,382.9 433.5,382.1 435.8,381.2 438.2,380.3 440.5,379.4 442.8,378.5 442.8,408.5 440.5,408.8 438.2,409.1 435.8,409.4 433.5,409.7 431.2,410 428.9,410.2 426.6,410.5 424.3,410.8 421.9,411.1 419.6,411.3 417.3,411.6 415,411.8 412.7,412.1 410.3,412.3 408,412.6 405.7,412.8 403.4,413.1 401.1,413.3 398.8,413.5 396.4,413.8 394.1,414 391.8,414.2 389.5,414.4 387.2,414.6 384.8,414.9 382.5,415.1 380.2,415.3 377.9,415.5 375.6,415.7 373.2,415.9 370.9,416.1 368.6,416.3 366.3,416.5 364,416.6 361.7,416.8 359.3,417 357,417.2 354.7,417.4 352.4,417.5 350.1,417.7 347.7,417.9 345.4,418.1 343.1,418.2 340.8,418.4 338.5,418.5 336.2,418.7 333.8,418.9 331.5,419 329.2,419.2" fill="#a9d9f1" fill-opacity="0.75"/>
<path d="M329.2 398.8l2.3-.9 2.3-.6 2.4-.7 2.3-.7 2.3-.6 2.3-.8 2.3-.4 2.3-.8 2.4-.7 2.3-.8 2.3-.8 2.3-.7 2.3-.9 2.4-1.2 2.3-1 2.3-.8 2.3-.8 2.3-.7 2.3-1 2.4-.8 2.3-1.1 2.3-.7 2.3-1.2 2.3-.9 2.4-.9 2.3-1 2.3-.9 2.3-1.1 2.3-.6 2.4-1.1 2.3-1.2 2.3-1.2 2.3-1.3 2.3-1 2.3-1.5 2.4-1 2.3-1.2 2.3-1.3 2.3-1 2.3-1.1 2.4-1.4 2.3-1.2 2.3-1.4 2.3-1.4 2.3-1.4 2.3-1.2 2.4-1.4 2.3-1.9 2.3-1.7" stroke="#ff7f0e" stroke-width="0.5" fill="none" stroke-opacity="0.5" stroke-linejoin="round"/>
<path d="M329.2 399.5l2.3-.8 2.3-.4 2.4-.5 2.3-.8 2.3-.7 2.3-.8 2.3-.7 2.3-.2 2.4-.8 2.3-.7 2.3-.4 2.3-.6 2.3-1 2.4-.9 2.3-.8 2.3-.7 2.3-.5 2.3-.7 2.3-.8 2.4-.8 2.3-.5 2.3-.6 2.3-.8 2.3-1 2.4-.8 2.3-.7 2.3-1.1 2.3-.9 2.3-.8 2.4-.6 2.3-1.1 2.3-.9 2.3-.7 2.3-.7 2.3-.8 2.4-1.3 2.3-1.4 2.3-1.2 2.3-.9 2.3-1.2 2.4-1.5 2.3-1.1 2.3-1.3 2.3-1.4 2.3-1.3 2.3-1.2 2.4-1.1 2.3-1.5 2.3-1.4" stroke="#9467bd" stroke-width="0.5" fill="none" stroke-opacity="0.5" stroke-linejoin="round"/>
<path d="M329.2 399.1l2.3-.6 2.3-.3 2.4-1 2.3-.4 2.3-.5 2.3-.8 2.3-.5 2.3-.5 2.4-.6 2.3-.7 2.3-.6 2.3-.7 2.3-.4 2.4-1.1 2.3-.7 2.3-.7 2.3-.8 2.3-1.1 2.3-.4 2.4-.9 2.3-.7 2.3-.8 2.3-1.1 2.3-1 2.4-.7 2.3-1 2.3-.9 2.3-.9 2.3-1.4 2.4-.9 2.3-.8 2.3-1 2.3-.9 2.3-1 2.3-.9 2.4-.9 2.3-1.1 2.3-1.7 2.3-1.3 2.3-1.1 2.4-1.3 2.3-1.2 2.3-1.4 2.3-1.1 2.3-1.3 2.3-1.4 2.4-1.3 2.3-1.2 2.3-1.3" stroke="#e377c2" stroke-width="0.5" fill="none" stroke-opacity="0.5" stroke-linejoin="round"/>
<path d="M329.2 405.4l2.3-.2 2.3-.6 2.4-.6 2.3-.3 2.3-.4 2.3-.4 2.3-.3 2.3-.4 2.4-.5 2.3-.4 2.3-.4 2.3-.7 2.3-.4 2.4-.8 2.3-.6 2.3-.4 2.3-.6 2.3-.9 2.3-.5 2.4-.7 2.3-.8 2.3-.5 2.3-.6 2.3-.5 2.4-.5 2.3-.6 2.3-.5 2.3-.7 2.3-.7 2.4-.7 2.3-.5 2.3-.7 2.3-.9 2.3-.8 2.3-.7 2.4-.7 2.3-.7 2.3-.6 2.3-.8 2.3-.7 2.4-.8 2.3-.7 2.3-.9 2.3-.7 2.3-1 2.3-.8 2.4-.8 2.3-.7 2.3-1" stroke="#1f77b4" stroke-width="0.5" fill="none" stroke-opacity="0.5" stroke-linejoin="round"/>
<path d="M329.2 402.5l2.3-.3 2.3-.4 2.4-.4 2.3-.4 2.3-.2 2.3-.5 2.3-.4 2.3-.6 2.4-.2 2.3-.5 2.3-.6 2.3-.4 2.3-.6 2.4-.3 2.3-.5 2.3-.3 2.3-.6 2.3-.5 2.3-.4 2.4-.4 2.3-.5 2.3-.5 2.3-.7 2.3-.8 2.4-.7 2.3-.4 2.3-.4 2.3-.7 2.3-.6 2.4-.5 2.3-.6 2.3-.5 2.3-.5 2.3-1 2.3-.5 2.4-.6 2.3-.4 2.3-.7 2.3-.7 2.3-.6 2.4-.6 2.3-.4 2.3-.6 2.3-.9 2.3-.5 2.3-.8 2.4-.6 2.3-.9 2.3-.7" stroke="#9467bd" stroke-width="0.5" fill="none" stroke-opacity="0.5" stroke-linejoin="round"/>
<path d="M329.2 416l2.3-.3 2.3-.3 2.4-.4 2.3-.5 2.3-.2 2.3-.4 2.3-.3 2.3-.3 2.4-.4 2.3-.5 2.3-.4 2.3-.4 2.3-.4 2.4-.4 2.3-.4 2.3-.5 2.3-.5 2.3-.4 2.3-.4 2.4-.4 2.3-.6 2.3-.5 2.3-.5 2.3-.4 2.4-.4 2.3-.5 2.3-.6 2.3-.5 2.3-.5 2.4-.6 2.3-.5 2.3-.7 2.3-.7 2.3-.7 2.3-.5 2.4-.8 2.3-.6 2.3-.6 2.3-.7 2.3-.7 2.4-.7 2.3-.5 2.3-.7 2.3-.9 2.3-.7 2.3-.8 2.4-.6 2.3-.9 2.3-.8" stroke="#8c564b" stroke-width="0.5" fill="none" stroke-opacity="0.5" stroke-linejoin="round"/>
<path d="M329.2 415.1l2.3-.2 2.3-.3 2.4-.2 2.3-.2 2.3-.4 2.3-.2 2.3-.3 2.3-.3 2.4-.2 2.3-.3 2.3-.4 2.3-.4 2.3-.3 2.4-.4 2.3-.2 2.3-.4 2.3-.1 2.3-.5 2.3-.3 2.4-.3 2.3-.5 2.3-.4 2.3-.2 2.3-.4 2.4-.5 2.3-.4 2.3-.5 2.3-.5 2.3-.2 2.4-.5 2.3-.4 2.3-.3 2.3-.4 2.3-.3 2.3-.5 2.4-.5 2.3-.4 2.3-.5 2.3-.5 2.3-.5 2.4-.4 2.3-.6 2.3-.5 2.3-.5 2.3-.6 2.3-.3 2.4-.6 2.3-.7 2.3-.6" stroke="#e377c2" stroke-width="0.5" fill="none" stroke-opacity="0.5" stroke-linejoin="round"/>
<path d="M329.2 405.9l2.3-.2 2.3-.3 2.4-.3 2.3-.3 2.3-.4 2.3-.2 2.3-.5 2.3-.4 2.4-.5 2.3-.4 2.3-.4 2.3-.4 2.3-.5 2.4-.5 2.3-.6 2.3-.8 2.3-.4 2.3-.6 2.3-.4 2.4-.6 2.3-.5 2.3-.8 2.3-.6 2.3-.9 2.4-.6 2.3-.4 2.3-.7 2.3-.6 2.3-.6 2.4-.6 2.3-.7 2.3-.4 2.3-.9 2.3-.9 2.3-.3 2.4-.7 2.3-1 2.3-.7 2.3-.6 2.3-.4 2.4-.8 2.3-.8 2.3-.6 2.3-.9 2.3-.5 2.3-.9 2.4-.8 2.3-1.1 2.3-.8" stroke="#7f7f7f" stroke-width="0.5" fill="none" stroke-opacity="0.5" stroke-linejoin="round"/>
<path d="M329.2 410.5l2.3-.2 2.3-.3 2.4-.4 2.3 0 2.3-.1 2.3-.3 2.3-.4 2.3-.3 2.4-.1 2.3-.4 2.3-.3 2.3-.4 2.3-.3 2.4-.5 2.3-.5 2.3-.4 2.3-.3 2.3-.3 2.3-.5 2.4-.3 2.3-.4 2.3-.6 2.3-.3 2.3-.4 2.4-.1 2.3-.7 2.3-.3 2.3-.4 2.3-.4 2.4-.4 2.3-.3 2.3-.6 2.3-.5 2.3-.4 2.3-.6 2.4-.5 2.3-.3 2.3-.6 2.3-.3 2.3-.7 2.4-.5 2.3-.3 2.3-.4 2.3-.5 2.3-.5 2.3-.8 2.4-.3 2.3-.6 2.3-.5" stroke="#bcbd22" stroke-width="0.5" fill="none" stroke-opacity="0.5" stroke-linejoin="round"/>
<path d="M329.2 408.9l2.3-.2 2.3 0 2.4-.2 2.3-.1 2.3-.2 2.3-.3 2.3-.5 2.3-.3 2.4-.1 2.3-.3 2.3-.2 2.3-.1 2.3-.3 2.4-.3 2.3-.3 2.3-.1 2.3-.4 2.3-.2 2.3-.4 2.4-.1 2.3-.3 2.3-.3 2.3-.4 2.3-.4 2.4-.1 2.3-.4 2.3-.5 2.3-.3 2.3-.3 2.4-.3 2.3-.2 2.3-.3 2.3-.2 2.3-.4 2.3-.5 2.4-.3 2.3-.3 2.3-.4 2.3-.3 2.3-.3 2.4-.2 2.3-.3 2.3-.4 2.3-.6 2.3-.4 2.3-.4 2.4-.4 2.3-.5 2.3-.3" stroke="#17becf" stroke-width="0.5" fill="none" stroke-opacity="0.5" stroke-linejoin="round"/>
<path d="M329.2 411.7l2.3-.3 2.3-.2 2.4-.5 2.3-.3 2.3-.4 2.3-.3 2.3-.5 2.3-.3 2.4-.5 2.3-.4 2.3-.4 2.3-.6 2.3-.4 2.4-.3 2.3-.3 2.3-.6 2.3-.2 2.3-.7 2.3-.4 2.4-.6 2.3-.3 2.3-.7 2.3-.7 2.3-.4 2.4-.7 2.3-.5 2.3-.6 2.3-.6 2.3-.4 2.4-.7 2.3-.6 2.3-.6 2.3-.7 2.3-.5 2.3-.4 2.4-.6 2.3-.7 2.3-.7 2.3-.3 2.3-.7 2.4-.6 2.3-.7 2.3-.8 2.3-.7 2.3-.7 2.3-.8 2.4-.7 2.3-.6 2.3-.9" stroke="#1f77b4" stroke-width="0.5" fill="none" stroke-opacity="0.5" stroke-linejoin="round"/>
<path d="M329.2 415.6l2.3-.2 2.3-.3 2.4-.2 2.3-.3 2.3-.3 2.3-.4 2.3-.5 2.3-.2 2.4-.5 2.3-.4 2.3-.3 2.3-.3 2.3-.2 2.4-.3 2.3-.6 2.3-.4 2.3-.4 2.3-.4 2.3-.4 2.4-.5 2.3-.5 2.3-.4 2.3-.6 2.3-.3 2.4-.6 2.3-.4 2.3-.5 2.3-.6 2.3-.5 2.4-.5 2.3-.4 2.3-.4 2.3-.6 2.3-.4 2.3-.6 2.4-.5 2.3-.6 2.3-.5 2.3-.7 2.3-.5 2.4-.7 2.3-.6 2.3-.6 2.3-.7 2.3-.8 2.3-.6 2.4-.8 2.3-.8 2.3-1" stroke="#ff7f0e" stroke-width="0.5" fill="none" stroke-opacity="0.5" stroke-linejoin="round"/>
<path d="M329.2 411.7l2.3-.3 2.3-.2 2.4-.3 2.3-.3 2.3-.3 2.3-.3 2.3-.2 2.3-.3 2.4-.3 2.3-.2 2.3-.3 2.3-.4 2.3-.1 2.4-.2 2.3-.4 2.3-.3 2.3-.4 2.3-.4 2.3-.5 2.4-.4 2.3-.1 2.3-.4 2.3-.4 2.3-.4 2.4-.4 2.3-.6 2.3-.4 2.3-.6 2.3-.3 2.4-.6 2.3-.5 2.3-.3 2.3-.5 2.3-.5 2.3-.3 2.4-.5 2.3-.3 2.3-.4 2.3-.5 2.3-.5 2.4-.4 2.3-.5 2.3-.4 2.3-.7 2.3-.7 2.3-.7 2.4-.7 2.3-.5 2.3-.6" stroke="#2ca02c" stroke-width="0.5" fill="none" stroke-opacity="0.5" stroke-linejoin="round"/>
<path d="M329.2 418.5l2.3-.2 2.3-.3 2.4-.2 2.3-.1 2.3-.3 2.3-.2 2.3-.3 2.3-.3 2.4-.2 2.3-.3 2.3-.3 2.3-.3 2.3-.4 2.4-.4 2.3-.3 2.3-.3 2.3-.3 2.3-.4 2.3-.3 2.4-.4 2.3-.4 2.3-.4 2.3-.4 2.3-.4 2.4-.4 2.3-.5 2.3-.5 2.3-.6 2.3-.4 2.4-.5 2.3-.6 2.3-.4 2.3-.7 2.3-.5 2.3-.5 2.4-.6 2.3-.7 2.3-.6 2.3-.6 2.3-.7 2.4-.7 2.3-.7 2.3-.6 2.3-.8 2.3-.8 2.3-.7 2.4-.7 2.3-.7 2.3-.9" stroke="#d62728" stroke-width="0.5" fill="none" stroke-opacity="0.5" stroke-linejoin="round"/>
<path d="M329.2 409.3l2.3-.3 2.3-.4 2.4-.2 2.3-.4 2.3-.4 2.3-.4 2.3-.3 2.3-.1 2.4-.3 2.3-.4 2.3-.3 2.3-.4 2.3-.4 2.4-.1 2.3-.4 2.3-.6 2.3-.6 2.3-.7 2.3-.2 2.4-.3 2.3-.4 2.3-.5 2.3-.3 2.3-.5 2.4-.2 2.3-.6 2.3-.4 2.3-.4 2.3-.5 2.4-.4 2.3-.5 2.3-.7 2.3-.5 2.3-.6 2.3-.6 2.4-.5 2.3-.4 2.3-.4 2.3-.7 2.3-.5 2.4-.5 2.3-.6 2.3-.6 2.3-.6 2.3-.7 2.3-.6 2.4-.5 2.3-.6 2.3-.8" stroke="#9467bd" stroke-width="0.5" fill="none" stroke-opacity="0.5" stroke-linejoin="round"/>
<path d="M329.2 402.3l2.3-.7 2.3-.6 2.4-.4 2.3-.7 2.3-.6 2.3-.7 2.3-.6 2.3-.7 2.4-.8 2.3-1.1 2.3-.6 2.3-.7 2.3-1 2.4-.6 2.3-.8 2.3-.8 2.3-.9 2.3-.9 2.3-.9 2.4-.9 2.3-.7 2.3-.9 2.3-1 2.3-1.2 2.4-1 2.3-1.1 2.3-.8 2.3-.5 2.3-1.3 2.4-1.1 2.3-1 2.3-.6 2.3-1.1 2.3-1 2.3-.8 2.4-1.3 2.3-1.2 2.3-1.3 2.3-1.5 2.3-1.5 2.4-1.6 2.3-1.3 2.3-1.4 2.3-1.4 2.3-1.4 2.3-1.5 2.4-1.5 2.3-1.4 2.3-1.7" stroke="#8c564b" stroke-width="0.5" fill="none" stroke-opacity="0.5" stroke-linejoin="round"/>
<path d="M329.2 418.1l2.3-.1 2.3-.2 2.4-.1 2.3 0 2.3-.2 2.3-.2 2.3-.2 2.3-.1 2.4-.2 2.3-.1 2.3-.1 2.3-.2 2.3-.1 2.4-.2 2.3-.3 2.3-.1 2.3-.2 2.3-.2 2.3-.1 2.4-.3 2.3-.2 2.3-.1 2.3-.3 2.3-.2 2.4-.2 2.3-.2 2.3-.3 2.3-.3 2.3-.2 2.4-.1 2.3-.2 2.3-.1 2.3-.2 2.3-.2 2.3-.2 2.4-.2 2.3-.2 2.3-.2 2.3-.2 2.3-.2 2.4-.3 2.3-.2 2.3-.2 2.3-.3 2.3-.3 2.3-.3 2.4-.3 2.3-.2 2.3-.3" stroke="#e377c2" stroke-width="0.5" fill="none" stroke-opacity="0.5" stroke-linejoin="round"/>
<path d="M329.2 411.8l2.3-.4 2.3-.5 2.4-.4 2.3-.5 2.3-.3 2.3-.4 2.3-.4 2.3-.5 2.4-.6 2.3-.4 2.3-.5 2.3-.4 2.3-.6 2.4-.3 2.3-.5 2.3-.6 2.3-.4 2.3-.4 2.3-.5 2.4-.5 2.3-.6 2.3-.5 2.3-.5 2.3-.5 2.4-.4 2.3-.5 2.3-.5 2.3-.5 2.3-.7 2.4-.6 2.3-.7 2.3-.5 2.3-.6 2.3-.6 2.3-.7 2.4-.8 2.3-.8 2.3-.7 2.3-.8 2.3-.6 2.4-.6 2.3-.7 2.3-.7 2.3-.8 2.3-.7 2.3-.8 2.4-.9 2.3-.7 2.3-.9" stroke="#7f7f7f" stroke-width="0.5" fill="none" stroke-opacity="0.5" stroke-linejoin="round"/>
<path d="M329.2 414.5l2.3-.3 2.3-.3 2.4-.3 2.3-.2 2.3-.3 2.3-.4 2.3-.4 2.3-.3 2.4-.3 2.3-.5 2.3-.4 2.3-.3 2.3-.4 2.4-.2 2.3-.3 2.3-.3 2.3-.3 2.3-.4 2.3-.3 2.4-.3 2.3-.5 2.3-.3 2.3-.4 2.3-.5 2.4-.4 2.3-.4 2.3-.6 2.3-.3 2.3-.5 2.4-.4 2.3-.5 2.3-.3 2.3-.5 2.3-.5 2.3-.4 2.4-.5 2.3-.6 2.3-.3 2.3-.6 2.3-.5 2.4-.6 2.3-.3 2.3-.7 2.3-.2 2.3-.5 2.3-.7 2.4-.7 2.3-.7 2.3-.5" stroke="#bcbd22" stroke-width="0.5" fill="none" stroke-opacity="0.5" stroke-linejoin="round"/>
<path d="M329.2 413.7l2.3-.3 2.3-.4 2.4-.2 2.3-.3 2.3-.3 2.3-.3 2.3-.4 2.3-.2 2.4-.4 2.3-.3 2.3-.2 2.3-.3 2.3-.5 2.4-.4 2.3-.4 2.3-.4 2.3-.4 2.3-.3 2.3-.3 2.4-.3 2.3-.3 2.3-.5 2.3-.5 2.3-.5 2.4-.4 2.3-.6 2.3-.4 2.3-.6 2.3-.4 2.4-.4 2.3-.4 2.3-.5 2.3-.5 2.3-.5 2.3-.6 2.4-.4 2.3-.4 2.3-.5 2.3-.5 2.3-.7 2.4-.5 2.3-.5 2.3-.6 2.3-.5 2.3-.8 2.3-.6 2.4-.7 2.3-.6 2.3-.6" stroke="#17becf" stroke-width="0.5" fill="none" stroke-opacity="0.5" stroke-linejoin="round"/>
<path d="M329.2 408.9l2.3-.4 2.3-.4 2.4-.4 2.3-.5 2.3-.5 2.3-.2 2.3-.3 2.3-.6 2.4-.4 2.3-.5 2.3-.5 2.3-.4 2.3-.3 2.4-.4 2.3-.5 2.3-.4 2.3-.3 2.3-.4 2.3-.5 2.4-.3 2.3-.6 2.3-.6 2.3-.4 2.3-.6 2.4-.5 2.3-.7 2.3-.7 2.3-.5 2.3-.5 2.4-.7 2.3-.7 2.3-.7 2.3-.7 2.3-.7 2.3-.6 2.4-.7 2.3-.7 2.3-.6 2.3-.8 2.3-.8 2.4-.8 2.3-.8 2.3-.5 2.3-.8 2.3-.9 2.3-.7 2.4-.9 2.3-.8 2.3-.8" stroke="#1f77b4" stroke-width="0.5" fill="none" stroke-opacity="0.5" stroke-linejoin="round"/>
<path d="M329.2 412l2.3-.3 2.3-.2 2.4-.2 2.3-.2 2.3-.4 2.3-.1 2.3-.2 2.3-.2 2.4-.2 2.3-.3 2.3-.3 2.3-.4 2.3-.3 2.4-.3 2.3-.3 2.3-.3 2.3-.3 2.3-.3 2.3-.5 2.4-.5 2.3-.4 2.3-.4 2.3-.2 2.3-.2 2.4-.4 2.3-.4 2.3-.4 2.3-.6 2.3-.5 2.4-.5 2.3-.5 2.3-.2 2.3-.4 2.3-.4 2.3-.4 2.4-.6 2.3-.4 2.3-.5 2.3-.5 2.3-.6 2.4-.5 2.3-.6 2.3-.3 2.3-.7 2.3-.6 2.3-.5 2.4-.8 2.3-.5 2.3-.7" stroke="#ff7f0e" stroke-width="0.5" fill="none" stroke-opacity="0.5" stroke-linejoin="round"/>
<path d="M329.2 414.5l2.3-.2 2.3-.3 2.4-.2 2.3-.2 2.3-.2 2.3-.4 2.3-.2 2.3-.3 2.4-.3 2.3-.5 2.3-.2 2.3-.4 2.3-.4 2.4-.4 2.3-.3 2.3-.3 2.3-.3 2.3-.4 2.3-.4 2.4-.3 2.3-.5 2.3-.5 2.3-.4 2.3-.4 2.4-.4 2.3-.4 2.3-.4 2.3-.2 2.3-.3 2.4-.5 2.3-.4 2.3-.5 2.3-.5 2.3-.5 2.3-.5 2.4-.5 2.3-.6 2.3-.6 2.3-.6 2.3-.5 2.4-.5 2.3-.6 2.3-.6 2.3-.6 2.3-.5 2.3-.7 2.4-.6 2.3-.5 2.3-.7" stroke="#2ca02c" stroke-width="0.5" fill="none" stroke-opacity="0.5" stroke-linejoin="round"/>
<path d="M329.2 416.7l2.3-.2 2.3-.1 2.4-.3 2.3-.2 2.3-.3 2.3-.2 2.3-.2 2.3-.3 2.4-.1 2.3-.3 2.3 0 2.3-.4 2.3-.2 2.4-.3 2.3-.3 2.3-.2 2.3-.3 2.3-.3 2.3-.3 2.4-.4 2.3-.3 2.3-.2 2.3-.4 2.3-.2 2.4-.3 2.3-.4 2.3-.2 2.3-.2 2.3-.3 2.4-.3 2.3-.2 2.3-.3 2.3-.3 2.3-.4 2.3-.4 2.4-.4 2.3-.3 2.3-.5 2.3-.2 2.3-.4 2.4-.3 2.3-.4 2.3-.3 2.3-.5 2.3-.3 2.3-.4 2.4-.5 2.3-.5 2.3-.4" stroke="#d62728" stroke-width="0.5" fill="none" stroke-opacity="0.5" stroke-linejoin="round"/>
<path d="M329.2 415.4l2.3-.3 2.3-.1 2.4-.1 2.3-.4 2.3-.3 2.3-.2 2.3-.2 2.3-.2 2.4-.3 2.3-.1 2.3-.3 2.3-.2 2.3-.3 2.4-.2 2.3-.4 2.3-.2 2.3-.2 2.3-.3 2.3-.1 2.4-.3 2.3-.4 2.3-.3 2.3-.2 2.3-.2 2.4-.4 2.3-.3 2.3-.3 2.3-.6 2.3-.4 2.4-.2 2.3-.3 2.3-.4 2.3-.3 2.3-.2 2.3-.5 2.4-.3 2.3-.5 2.3-.3 2.3-.4 2.3-.6 2.4-.4 2.3-.4 2.3-.5 2.3-.3 2.3-.4 2.3-.6 2.4-.5 2.3-.4 2.3-.5" stroke="#9467bd" stroke-width="0.5" fill="none" stroke-opacity="0.5" stroke-linejoin="round"/>
<path d="M329.2 412.6l2.3-.2 2.3-.2 2.4-.2 2.3-.3 2.3-.2 2.3-.3 2.3-.3 2.3-.2 2.4-.4 2.3-.2 2.3-.3 2.3-.2 2.3-.2 2.4-.1 2.3-.2 2.3-.2 2.3-.2 2.3-.2 2.3-.1 2.4-.1 2.3-.2 2.3-.3 2.3-.1 2.3 0 2.4-.2 2.3-.1 2.3-.1 2.3-.1 2.3-.1 2.4-.3 2.3-.3 2.3-.2 2.3-.3 2.3-.3 2.3-.2 2.4-.4 2.3-.2 2.3-.2 2.3-.1 2.3-.2 2.4-.2 2.3-.2 2.3-.2 2.3-.3 2.3-.1 2.3-.3 2.4-.3 2.3-.1 2.3-.3" stroke="#8c564b" stroke-width="0.5" fill="none" stroke-opacity="0.5" stroke-linejoin="round"/>
<path d="M329.2 417l2.3-.2 2.3-.2 2.4 .1 2.3-.3 2.3-.2 2.3-.2 2.3-.1 2.3-.3 2.4 0 2.3-.3 2.3-.1 2.3-.1 2.3-.3 2.4-.1 2.3-.2 2.3-.1 2.3-.3 2.3-.2 2.3-.2 2.4-.2 2.3-.3 2.3-.2 2.3-.2 2.3-.3 2.4-.1 2.3-.2 2.3-.3 2.3-.3 2.3-.2 2.4-.3 2.3 0 2.3-.3 2.3-.2 2.3-.3 2.3-.3 2.4-.1 2.3-.3 2.3-.3 2.3-.2 2.3-.4 2.4-.1 2.3-.3 2.3-.3 2.3-.3 2.3-.4 2.3-.3 2.4-.3 2.3-.3 2.3-.4" stroke="#e377c2" stroke-width="0.5" fill="none" stroke-opacity="0.5" stroke-linejoin="round"/>
<path d="M329.2 416.2l2.3-.2 2.3-.2 2.4-.4 2.3-.2 2.3-.2 2.3-.2 2.3-.3 2.3-.3 2.4-.3 2.3-.4 2.3-.4 2.3-.5 2.3-.4 2.4-.3 2.3-.3 2.3-.3 2.3-.2 2.3-.2 2.3-.5 2.4-.4 2.3-.5 2.3-.3 2.3-.3 2.3-.5 2.4-.3 2.3-.3 2.3-.5 2.3-.3 2.3-.4 2.4-.3 2.3-.4 2.3-.6 2.3-.5 2.3-.5 2.3-.5 2.4-.4 2.3-.5 2.3-.6 2.3-.5 2.3-.6 2.4-.5 2.3-.4 2.3-.6 2.3-.5 2.3-.7 2.3-.5 2.4-.7 2.3-.7 2.3-.6" stroke="#7f7f7f" stroke-width="0.5" fill="none" stroke-opacity="0.5" stroke-linejoin="round"/>
<path d="M329.2 417.9l2.3-.3 2.3-.2 2.4-.2 2.3-.2 2.3-.2 2.3-.1 2.3-.1 2.3-.1 2.4-.2 2.3-.3 2.3-.2 2.3-.2 2.3-.1 2.4-.1 2.3-.2 2.3-.2 2.3-.3 2.3-.2 2.3-.3 2.4-.1 2.3-.2 2.3-.2 2.3-.3 2.3-.2 2.4-.2 2.3-.2 2.3-.2 2.3-.3 2.3-.4 2.4-.2 2.3-.2 2.3-.4 2.3-.3 2.3-.3 2.3-.2 2.4-.2 2.3-.3 2.3-.2 2.3-.3 2.3-.4 2.4-.4 2.3-.4 2.3-.2 2.3-.4 2.3-.4 2.3-.2 2.4-.4 2.3-.4 2.3-.3" stroke="#bcbd22" stroke-width="0.5" fill="none" stroke-opacity="0.5" stroke-linejoin="round"/>
<path d="M329.2 416.3l2.3-.4 2.3-.3 2.4-.2 2.3-.2 2.3-.4 2.3-.3 2.3-.1 2.3-.2 2.4-.4 2.3-.3 2.3-.2 2.3-.1 2.3-.3 2.4-.3 2.3-.2 2.3-.2 2.3-.3 2.3-.3 2.3-.3 2.4-.3 2.3-.5 2.3-.2 2.3-.3 2.3-.2 2.4-.3 2.3-.4 2.3-.3 2.3-.3 2.3-.4 2.4-.4 2.3-.4 2.3-.4 2.3-.3 2.3-.5 2.3-.5 2.4-.3 2.3-.5 2.3-.4 2.3-.4 2.3-.5 2.4-.4 2.3-.5 2.3-.3 2.3-.6 2.3-.4 2.3-.5 2.4-.6 2.3-.6 2.3-.6" stroke="#17becf" stroke-width="0.5" fill="none" stroke-opacity="0.5" stroke-linejoin="round"/>
<polygon points="329.2,413 331.5,412.7 333.8,412.4 336.2,412.1 338.5,411.8 340.8,411.5 343.1,411.2 345.4,410.9 347.7,410.5 350.1,410.2 352.4,409.9 354.7,409.5 357,409.2 359.3,408.9 361.7,408.5 364,408.1 366.3,407.8 368.6,407.4 370.9,407 373.2,406.6 375.6,406.2 377.9,405.8 380.2,405.4 382.5,405 384.8,404.5 387.2,404.1 389.5,403.7 391.8,403.2 394.1,402.8 396.4,402.3 398.8,401.8 401.1,401.3 403.4,400.8 405.7,400.3 408,399.8 410.3,399.3 412.7,398.8 415,398.2 417.3,397.7 419.6,397.1 421.9,396.6 424.3,396 426.6,395.4 428.9,394.8 431.2,394.2 433.5,393.6 435.8,392.9 438.2,392.3 440.5,391.7 442.8,391 442.8,396 440.5,396.6 438.2,397.1 435.8,397.6 433.5,398.2 431.2,398.7 428.9,399.2 426.6,399.7 424.3,400.2 421.9,400.7 419.6,401.2 417.3,401.7 415,402.1 412.7,402.6 410.3,403 408,403.5 405.7,403.9 403.4,404.3 401.1,404.8 398.8,405.2 396.4,405.6 394.1,406 391.8,406.4 389.5,406.7 387.2,407.1 384.8,407.5 382.5,407.9 380.2,408.2 377.9,408.6 375.6,408.9 373.2,409.3 370.9,409.6 368.6,409.9 366.3,410.2 364,410.6 361.7,410.9 359.3,411.2 357,411.5 354.7,411.8 352.4,412.1 350.1,412.4 347.7,412.6 345.4,412.9 343.1,413.2 340.8,413.5 338.5,413.7 336.2,414 333.8,414.2 331.5,414.5 329.2,414.7" fill="#2a9fd8" fill-opacity="0.9"/>
<path d="M357.6 344.2V424.7" stroke="#f25c86" stroke-width="1.100" stroke-dasharray="4.400 1.800" fill="none"/>
</g>
<rect x="323.3" y="343.7" width="125.5" height="81" fill="none" stroke="#222" stroke-width=".8"/>
<path d="M329.2 424.7v2.200M357.6 424.7v2.200M386 424.7v2.200M414.4 424.7v2.200M442.8 424.7v2.200M343.4 424.7v1.300M371.8 424.7v1.300M400.2 424.7v1.300M428.6 424.7v1.300M323.3 411.2h-2.200M323.3 393.5h-2.200M323.3 375.8h-2.200M323.3 358.1h-2.200" stroke="#222" stroke-width=".6" fill="none"/>
<g font-size="7"><text x="329.2" y="433" text-anchor="middle">−1.0</text><text x="357.6" y="433" text-anchor="middle">0.0</text><text x="386" y="433" text-anchor="middle">1.0</text><text x="414.4" y="433" text-anchor="middle">2.0</text><text x="442.8" y="433" text-anchor="middle">3.0</text><text x="320.1" y="413.6" text-anchor="end">200</text><text x="320.1" y="395.9" text-anchor="end">400</text><text x="320.1" y="378.2" text-anchor="end">600</text><text x="320.1" y="360.5" text-anchor="end">800</text><text x="385.7" y="440.5" text-anchor="middle">Time (h)</text><text transform="translate(306 384) rotate(-90)" text-anchor="middle">Area (µm²)</text></g>
<text x="384.9" y="338.9" font-size="8.25" text-anchor="middle">Reference</text>
<rect x="359" y="345.1" width="48.8" height="21.4" rx="1" fill="#fff" fill-opacity=".8" stroke="#ccc" stroke-width=".5"/>
<g font-size="5.75"><path d="M361.5 348.1h7.5" stroke="#f2557f" stroke-width=".8" stroke-dasharray="2.800 1.200"/><text x="371.5" y="350">Drug addition</text><rect x="361.5" y="353.1" width="7.5" height="3.400" fill="#a9d9f1"/><text x="371.5" y="356.7">Mean±SD</text><rect x="361.5" y="359.8" width="7.5" height="3.400" fill="#2a9fd8"/><text x="371.5" y="363.4">Mean±SEM</text></g>
<clipPath id="c7"><rect x="468.9" y="343.7" width="122.7" height="81"/></clipPath>
<rect x="468.9" y="343.7" width="122.7" height="81" fill="#fff"/>
<g clip-path="url(#c7)">
<polygon points="474.2,394.6 476.5,393.5 478.8,392.3 481.1,391.3 483.4,390.3 485.7,389.4 488,388.6 490.3,387.8 492.6,387.1 494.9,386.4 497.2,385.8 499.5,385.2 501.8,384.6 504.1,384.1 506.4,383.6 508.7,383.2 511,382.7 513.3,382.3 515.6,382 517.9,381.6 520.2,381.3 522.5,381 524.8,380.7 527.1,380.5 529.4,380.2 531.8,380 534.1,379.8 536.4,379.6 538.7,379.4 541,379.3 543.3,379.2 545.6,379.1 547.9,379.1 550.2,379 552.5,378.9 554.8,378.9 557.1,378.8 559.4,378.8 561.7,378.7 564,378.7 566.3,378.7 568.6,378.7 570.9,378.6 573.2,378.6 575.5,378.6 577.8,378.6 580.1,378.6 582.4,378.6 584.7,378.7 587,378.7 587,407 584.7,406.9 582.4,406.9 580.1,406.8 577.8,406.8 575.5,406.7 573.2,406.6 570.9,406.6 568.6,406.5 566.3,406.5 564,406.4 561.7,406.4 559.4,406.4 557.1,406.3 554.8,406.3 552.5,406.2 550.2,406.2 547.9,406.2 545.6,406.2 543.3,406.1 541,406.1 538.7,406.1 536.4,406.1 534.1,406.1 531.8,406.2 529.4,406.3 527.1,406.4 524.8,406.4 522.5,406.5 520.2,406.6 517.9,406.7 515.6,406.9 513.3,407 511,407.2 508.7,407.3 506.4,407.5 504.1,407.7 501.8,407.9 499.5,408.1 497.2,408.4 494.9,408.7 492.6,409 490.3,409.3 488,409.6 485.7,410 483.4,410.5 481.1,410.9 478.8,411.4 476.5,412 474.2,412.6" fill="#f8a9c0" fill-opacity="0.75"/>
<path d="M474.2 375.4l2.3-2.4 2.3-2 2.3-1.2 2.3-1.3 2.3-1.2 2.3-1.4 2.3-1.1 2.3-.7 2.3-1.7 2.3-1 2.3-1.2 2.3 0 2.3-1 2.3-1.3 2.3-.6 2.3-.6 2.3 .2 2.3-.8 2.3-1.5 2.3-1 2.3 .1 2.3-.7 2.3-.3 2.3-.9 2.4-.8 2.3-.4 2.3 0 2.3 .2 2.3-.4 2.3-.1 2.3 .6 2.3 0 2.3 .5 2.3 .1 2.3-.8 2.3-.1 2.3-.6 2.3-.5 2.3 .4 2.3-.7 2.3 .1 2.3 .3 2.3-.4 2.3 0 2.3-.3 2.3 .1 2.3-.3 2.3 .3 2.3 0" stroke="#8c564b" stroke-width="0.5" fill="none" stroke-opacity="0.5" stroke-linejoin="round"/>
<path d="M474.2 391.3l2.3-1.8 2.3-1.5 2.3-1.6 2.3-1.4 2.3-1.3 2.3-1.1 2.3-1.4 2.3-1.1 2.3-1.2 2.3-1.3 2.3-1 2.3-.9 2.3-.4 2.3-1 2.3-.4 2.3-.4 2.3-.5 2.3-.2 2.3-.7 2.3-.4 2.3-.5 2.3-.1 2.3-.3 2.3 .2 2.4-.3 2.3-.1 2.3 0 2.3-.1 2.3 .1 2.3-.1 2.3 0 2.3 0 2.3 .4 2.3-.2 2.3-.2 2.3-.1 2.3-.1 2.3-.4 2.3 0 2.3-.3 2.3 .1 2.3 .5 2.3 .1 2.3 0 2.3 .1 2.3 .1 2.3 .5 2.3-.1 2.3 .1" stroke="#ff7f0e" stroke-width="0.5" fill="none" stroke-opacity="0.5" stroke-linejoin="round"/>
<path d="M474.2 385.4l2.3-.9 2.3-1.2 2.3-1.2 2.3-1.2 2.3-.7 2.3-1.1 2.3-.6 2.3-.3 2.3-1 2.3-.5 2.3-.9 2.3-.7 2.3-.4 2.3-.7 2.3 0 2.3-.1 2.3 .1 2.3 .2 2.3-.4 2.3-.6 2.3-.6 2.3-.4 2.3-.2 2.3-.2 2.4-.2 2.3 .2 2.3 0 2.3 .4 2.3 0 2.3-.1 2.3 0 2.3 .2 2.3 .2 2.3-.4 2.3 .1 2.3 .2 2.3 .5 2.3-.5 2.3 .1 2.3 .4 2.3 .6 2.3-.2 2.3 0 2.3 .1 2.3 .2 2.3 .2 2.3 .1 2.3 0 2.3 0" stroke="#9467bd" stroke-width="0.5" fill="none" stroke-opacity="0.5" stroke-linejoin="round"/>
<path d="M474.2 393.4l2.3-1.4 2.3-1.2 2.3-1 2.3-.9 2.3-.7 2.3-.4 2.3-.3 2.3-.4 2.3-.8 2.3-.4 2.3-.4 2.3-.3 2.3-.3 2.3-.4 2.3-.6 2.3-.1 2.3-.5 2.3-.2 2.3-.5 2.3-.2 2.3-.4 2.3-.2 2.3-.5 2.3 .2 2.4-.1 2.3 .3 2.3-.3 2.3-.5 2.3-.2 2.3-.1 2.3-.1 2.3 0 2.3 .1 2.3 .1 2.3-.1 2.3-.2 2.3 0 2.3 .6 2.3 0 2.3-.3 2.3-.2 2.3 .3 2.3 .3 2.3 .2 2.3 .2 2.3 .1 2.3 .1 2.3 .4 2.3 0" stroke="#1f77b4" stroke-width="0.5" fill="none" stroke-opacity="0.5" stroke-linejoin="round"/>
<path d="M474.2 417.1l2.3-.2 2.3-.2 2.3-.2 2.3-.2 2.3-.2 2.3-.2 2.3-.1 2.3-.3 2.3-.1 2.3-.1 2.3-.1 2.3-.2 2.3-.2 2.3-.1 2.3-.1 2.3-.1 2.3 .1 2.3-.1 2.3 0 2.3 0 2.3-.1 2.3-.2 2.3 0 2.3 0 2.4 .1 2.3-.1 2.3 0 2.3 0 2.3 0 2.3 .1 2.3 .1 2.3 0 2.3-.1 2.3 0 2.3 .1 2.3 0 2.3 .1 2.3 0 2.3-.1 2.3 0 2.3 .1 2.3 0 2.3 0 2.3 0 2.3 .1 2.3-.1 2.3 0 2.3 0 2.3 0" stroke="#17becf" stroke-width="0.5" fill="none" stroke-opacity="0.5" stroke-linejoin="round"/>
<path d="M474.2 421.1l2.3-.1 2.3 0 2.3-.1 2.3-.1 2.3 0 2.3-.2 2.3-.1 2.3-.1 2.3-.1 2.3-.1 2.3 0 2.3-.1 2.3-.1 2.3-.1 2.3 .1 2.3 0 2.3 0 2.3 0 2.3 0 2.3 0 2.3 0 2.3 0 2.3 0 2.3 0 2.4 0 2.3-.1 2.3 .1 2.3-.1 2.3 0 2.3 .1 2.3 0 2.3-.1 2.3 0 2.3-.1 2.3 0 2.3 .1 2.3-.1 2.3 0 2.3 0 2.3 .1 2.3-.2 2.3 0 2.3 0 2.3-.1 2.3 .1 2.3-.1 2.3 .1 2.3 0 2.3-.1" stroke="#17becf" stroke-width="0.5" fill="none" stroke-opacity="0.5" stroke-linejoin="round"/>
<path d="M474.2 411.1l2.3-.3 2.3-.3 2.3-.3 2.3-.3 2.3-.2 2.3-.2 2.3-.3 2.3-.2 2.3 0 2.3 0 2.3-.4 2.3-.1 2.3-.2 2.3-.2 2.3-.3 2.3 0 2.3-.1 2.3-.3 2.3-.1 2.3-.1 2.3 0 2.3-.1 2.3 0 2.3-.1 2.4 0 2.3 0 2.3-.2 2.3-.1 2.3 .2 2.3-.1 2.3-.2 2.3 0 2.3 0 2.3-.3 2.3 0 2.3 .2 2.3 0 2.3-.3 2.3-.3 2.3 .2 2.3 0 2.3 0 2.3 0 2.3 0 2.3 .1 2.3 0 2.3 .1 2.3 0 2.3 .1" stroke="#1f77b4" stroke-width="0.5" fill="none" stroke-opacity="0.5" stroke-linejoin="round"/>
<path d="M474.2 403.9l2.3-1.1 2.3-.5 2.3-.5 2.3-.7 2.3-.4 2.3 0 2.3-.4 2.3-.3 2.3-.4 2.3-.4 2.3-.2 2.3 0 2.3-.4 2.3-.4 2.3-.2 2.3-.2 2.3-.3 2.3-.3 2.3-.3 2.3-.2 2.3-.2 2.3-.2 2.3 0 2.3-.3 2.4-.2 2.3-.3 2.3-.1 2.3 0 2.3-.1 2.3 0 2.3 .1 2.3 0 2.3 .2 2.3 .1 2.3 0 2.3 .3 2.3 .1 2.3-.1 2.3 .2 2.3 .1 2.3 .1 2.3 .2 2.3 0 2.3 .2 2.3 .1 2.3 .1 2.3 .2 2.3 .3 2.3-.1" stroke="#7f7f7f" stroke-width="0.5" fill="none" stroke-opacity="0.5" stroke-linejoin="round"/>
<path d="M474.2 389.6l2.3-1 2.3-.7 2.3-.9 2.3-.5 2.3-.8 2.3-.7 2.3-.9 2.3-.3 2.3-.3 2.3-.6 2.3-.5 2.3-.2 2.3-.1 2.3-.4 2.3-.6 2.3-.3 2.3-.5 2.3 0 2.3-.4 2.3-.1 2.3-.5 2.3 0 2.3 .1 2.3-.3 2.4-.4 2.3 .1 2.3-.3 2.3-.3 2.3-.4 2.3-.3 2.3 .1 2.3 .1 2.3-.1 2.3 0 2.3-.1 2.3-.1 2.3-.1 2.3-.1 2.3 .3 2.3 0 2.3 .1 2.3 .3 2.3-.1 2.3-.2 2.3-.1 2.3 0 2.3 .3 2.3 .4 2.3 .3" stroke="#bcbd22" stroke-width="0.5" fill="none" stroke-opacity="0.5" stroke-linejoin="round"/>
<path d="M474.2 403.8l2.3-.8 2.3-.6 2.3-.6 2.3-.8 2.3-.3 2.3-.6 2.3-.2 2.3-.7 2.3-.5 2.3-.6 2.3-.3 2.3-.4 2.3-.4 2.3-.5 2.3-.2 2.3-.3 2.3-.1 2.3-.2 2.3 0 2.3-.2 2.3-.2 2.3-.1 2.3-.4 2.3 .1 2.4-.3 2.3-.4 2.3 0 2.3-.1 2.3-.1 2.3-.2 2.3 0 2.3-.1 2.3-.1 2.3 .1 2.3 .1 2.3 0 2.3 .1 2.3 0 2.3-.1 2.3-.1 2.3-.2 2.3-.1 2.3-.4 2.3-.1 2.3 0 2.3-.1 2.3 0 2.3-.1 2.3-.2" stroke="#17becf" stroke-width="0.5" fill="none" stroke-opacity="0.5" stroke-linejoin="round"/>
<path d="M474.2 400.9l2.3-1.6 2.3-1.3 2.3-1.3 2.3-1.5 2.3-1 2.3-1.2 2.3-.9 2.3-.9 2.3-.5 2.3-.6 2.3-.9 2.3-1 2.3-.6 2.3-.6 2.3-.7 2.3-.7 2.3-.4 2.3-.5 2.3-.6 2.3-.1 2.3-.3 2.3-.2 2.3-.2 2.3-.3 2.4-.3 2.3-.2 2.3-.1 2.3-.4 2.3 0 2.3 .1 2.3 .3 2.3-.1 2.3 0 2.3 .2 2.3 .1 2.3-.3 2.3-.3 2.3-.2 2.3 0 2.3 .1 2.3-.1 2.3 .2 2.3 0 2.3-.1 2.3 0 2.3-.1 2.3-.1 2.3 0 2.3 0" stroke="#1f77b4" stroke-width="0.5" fill="none" stroke-opacity="0.5" stroke-linejoin="round"/>
<path d="M474.2 397.4l2.3-.8 2.3-.4 2.3 0 2.3-.2 2.3-.6 2.3-.3 2.3-.4 2.3-.5 2.3 .4 2.3 .1 2.3-.4 2.3-.1 2.3-.3 2.3-.2 2.3-.1 2.3-.1 2.3-.2 2.3-.2 2.3 0 2.3 0 2.3 .1 2.3-.3 2.3 0 2.3-.1 2.4-.1 2.3 .1 2.3-.7 2.3-.1 2.3 .1 2.3-.3 2.3-.3 2.3-.5 2.3 .2 2.3 0 2.3 .1 2.3 .3 2.3-.2 2.3-.2 2.3 .3 2.3 0 2.3 .2 2.3-.2 2.3-.1 2.3 0 2.3 0 2.3 0 2.3 .1 2.3-.2 2.3 0" stroke="#ff7f0e" stroke-width="0.5" fill="none" stroke-opacity="0.5" stroke-linejoin="round"/>
<path d="M474.2 392l2.3-1.2 2.3-1 2.3-.9 2.3-1.4 2.3-1 2.3-.6 2.3-.6 2.3-.8 2.3-.7 2.3-.8 2.3-.5 2.3-.7 2.3-.4 2.3-.7 2.3-.5 2.3-.5 2.3-.4 2.3-.4 2.3 0 2.3-.2 2.3-.5 2.3-.7 2.3-.5 2.3-.2 2.4 .1 2.3-.5 2.3-.1 2.3 0 2.3-.3 2.3 .1 2.3-.1 2.3 .4 2.3 .2 2.3-.4 2.3-.3 2.3 0 2.3-.1 2.3 .2 2.3-.2 2.3-.2 2.3-.1 2.3 .1 2.3-.1 2.3-.1 2.3-.1 2.3-.5 2.3-.2 2.3-.1 2.3 .1" stroke="#2ca02c" stroke-width="0.5" fill="none" stroke-opacity="0.5" stroke-linejoin="round"/>
<path d="M474.2 407.9l2.3-.8 2.3-.8 2.3-.5 2.3-.8 2.3-.7 2.3-.5 2.3-.4 2.3-.4 2.3-.6 2.3-.2 2.3-.5 2.3-.3 2.3-.3 2.3-.4 2.3-.2 2.3-.3 2.3-.2 2.3-.2 2.3-.4 2.3 0 2.3-.1 2.3-.4 2.3 0 2.3-.1 2.4-.1 2.3-.2 2.3-.3 2.3 0 2.3 0 2.3-.2 2.3 .2 2.3 .3 2.3 .1 2.3-.1 2.3-.1 2.3-.1 2.3 .2 2.3 0 2.3 0 2.3 0 2.3 0 2.3 0 2.3 0 2.3 .2 2.3 .1 2.3-.1 2.3 .1 2.3-.1 2.3 .1" stroke="#d62728" stroke-width="0.5" fill="none" stroke-opacity="0.5" stroke-linejoin="round"/>
<path d="M474.2 414.2l2.3-.1 2.3-.2 2.3-.4 2.3-.2 2.3-.2 2.3-.3 2.3 .1 2.3-.2 2.3-.2 2.3-.2 2.3-.2 2.3 .1 2.3 0 2.3-.1 2.3-.1 2.3 0 2.3-.2 2.3-.1 2.3-.1 2.3 0 2.3-.1 2.3-.1 2.3-.1 2.3 0 2.4 0 2.3 .1 2.3 .1 2.3 0 2.3 0 2.3 0 2.3 0 2.3-.2 2.3 0 2.3-.1 2.3 .1 2.3 0 2.3 .1 2.3 0 2.3 0 2.3 .1 2.3 0 2.3 .1 2.3 0 2.3-.2 2.3-.1 2.3-.2 2.3 0 2.3 0 2.3 .1" stroke="#9467bd" stroke-width="0.5" fill="none" stroke-opacity="0.5" stroke-linejoin="round"/>
<path d="M474.2 402l2.3-1.2 2.3-.7 2.3-.9 2.3-.8 2.3-.8 2.3-.9 2.3-.8 2.3-.6 2.3-.4 2.3-.2 2.3-.5 2.3-.6 2.3-.3 2.3-.4 2.3-.4 2.3-.3 2.3-.2 2.3-.3 2.3-.5 2.3 0 2.3-.3 2.3-.6 2.3-.1 2.3-.3 2.4-.2 2.3-.3 2.3-.2 2.3-.1 2.3 .1 2.3 0 2.3 0 2.3-.1 2.3-.2 2.3 .1 2.3-.2 2.3 .2 2.3-.1 2.3 .2 2.3-.2 2.3-.1 2.3-.2 2.3 .2 2.3 0 2.3 .4 2.3-.1 2.3 .1 2.3 .1 2.3 0 2.3 .1" stroke="#8c564b" stroke-width="0.5" fill="none" stroke-opacity="0.5" stroke-linejoin="round"/>
<path d="M474.2 383.4l2.3-.8 2.3-.7 2.3-.4 2.3-.7 2.3-.8 2.3-.6 2.3-.8 2.3-.4 2.3-.6 2.3-.7 2.3-.6 2.3-.3 2.3-.4 2.3 .2 2.3 0 2.3-.6 2.3 0 2.3-.3 2.3 0 2.3-.2 2.3 0 2.3-.1 2.3-.3 2.3-.3 2.4-.1 2.3-.3 2.3 .2 2.3 .1 2.3 .3 2.3-.2 2.3 .1 2.3 .3 2.3 .2 2.3-.1 2.3 0 2.3-.3 2.3 .2 2.3-.1 2.3 .2 2.3 .1 2.3-.3 2.3-.2 2.3 .1 2.3-.2 2.3 .2 2.3 .1 2.3 .3 2.3 .3 2.3-.1" stroke="#e377c2" stroke-width="0.5" fill="none" stroke-opacity="0.5" stroke-linejoin="round"/>
<path d="M474.2 401.1l2.3-1.5 2.3-.9 2.3-1.1 2.3-.9 2.3-.8 2.3-.6 2.3-.6 2.3-.9 2.3-.5 2.3-.5 2.3-.7 2.3-.4 2.3-.4 2.3-.4 2.3-.1 2.3-.3 2.3-.2 2.3 0 2.3-.3 2.3-.5 2.3-.2 2.3-.1 2.3-.3 2.3-.1 2.4 .1 2.3-.4 2.3 0 2.3 .4 2.3 .2 2.3 0 2.3-.1 2.3 0 2.3 0 2.3-.1 2.3-.1 2.3 0 2.3-.2 2.3 0 2.3-.2 2.3 .1 2.3 .2 2.3-.1 2.3-.2 2.3 0 2.3-.1 2.3 0 2.3 .1 2.3 .1 2.3 0" stroke="#7f7f7f" stroke-width="0.5" fill="none" stroke-opacity="0.5" stroke-linejoin="round"/>
<path d="M474.2 399.7l2.3-1.3 2.3-1.1 2.3-1.3 2.3-.9 2.3-.9 2.3-1.3 2.3-1 2.3-.9 2.3-.7 2.3-.7 2.3-.6 2.3-.5 2.3-.9 2.3-.4 2.3-.2 2.3-.3 2.3-.5 2.3-.8 2.3 .1 2.3-.2 2.3-.4 2.3-.3 2.3-.2 2.3-.1 2.4-.1 2.3-.2 2.3-.1 2.3-.1 2.3-.1 2.3 0 2.3 0 2.3-.4 2.3 .2 2.3 0 2.3 .1 2.3 .1 2.3-.2 2.3-.1 2.3 .3 2.3 .1 2.3 0 2.3-.3 2.3 .2 2.3-.1 2.3-.1 2.3 .1 2.3 .1 2.3-.1 2.3 0" stroke="#bcbd22" stroke-width="0.5" fill="none" stroke-opacity="0.5" stroke-linejoin="round"/>
<path d="M474.2 400.4l2.3-.9 2.3-1.1 2.3-1 2.3-.7 2.3-.9 2.3-.9 2.3-.6 2.3-.7 2.3-.4 2.3-.7 2.3-.6 2.3-.3 2.3-.3 2.3-.3 2.3-.3 2.3-.2 2.3-.1 2.3-.3 2.3-.4 2.3-.2 2.3-.3 2.3-.3 2.3-.1 2.3 0 2.4-.2 2.3 0 2.3-.3 2.3-.2 2.3 .1 2.3 .1 2.3 .2 2.3-.2 2.3-.3 2.3-.1 2.3 .1 2.3 .2 2.3 .1 2.3 .3 2.3 0 2.3 .2 2.3-.3 2.3 .2 2.3-.1 2.3 .2 2.3-.1 2.3 .2 2.3-.1 2.3-.1 2.3-.3" stroke="#17becf" stroke-width="0.5" fill="none" stroke-opacity="0.5" stroke-linejoin="round"/>
<path d="M474.2 416.7l2.3-.5 2.3-.5 2.3-.5 2.3-.5 2.3-.5 2.3-.4 2.3-.3 2.3-.2 2.3-.1 2.3-.4 2.3-.2 2.3-.4 2.3-.2 2.3-.2 2.3-.1 2.3-.1 2.3-.2 2.3-.2 2.3-.1 2.3-.1 2.3-.1 2.3-.1 2.3-.2 2.3 0 2.4-.1 2.3-.1 2.3-.1 2.3-.1 2.3 .1 2.3-.1 2.3-.1 2.3 .2 2.3 0 2.3 0 2.3 0 2.3-.1 2.3 0 2.3-.1 2.3 0 2.3 .1 2.3-.1 2.3 .1 2.3 0 2.3 0 2.3 0 2.3-.1 2.3 0 2.3 0 2.3 0" stroke="#1f77b4" stroke-width="0.5" fill="none" stroke-opacity="0.5" stroke-linejoin="round"/>
<path d="M474.2 399.2l2.3-1.1 2.3-1 2.3-.7 2.3-.8 2.3-1.2 2.3-.7 2.3-.8 2.3-.7 2.3-.7 2.3-.8 2.3-1 2.3-.6 2.3-.6 2.3-.3 2.3-.3 2.3-.7 2.3-.3 2.3-.1 2.3-.2 2.3-.4 2.3 0 2.3-.2 2.3-.1 2.3-.4 2.4-.1 2.3-.2 2.3-.1 2.3-.1 2.3-.2 2.3-.1 2.3-.2 2.3-.2 2.3-.1 2.3-.3 2.3 .2 2.3 .1 2.3 0 2.3-.1 2.3 .1 2.3 .3 2.3 0 2.3 0 2.3 .4 2.3 .1 2.3-.4 2.3-.1 2.3 0 2.3-.1 2.3 .2" stroke="#ff7f0e" stroke-width="0.5" fill="none" stroke-opacity="0.5" stroke-linejoin="round"/>
<path d="M474.2 405.2l2.3-.5 2.3-.6 2.3-.4 2.3-.7 2.3-.5 2.3-.4 2.3-.3 2.3-.1 2.3-.3 2.3-.5 2.3-.3 2.3-.2 2.3-.4 2.3-.1 2.3 .1 2.3-.5 2.3-.3 2.3 0 2.3 0 2.3-.2 2.3-.1 2.3-.1 2.3-.5 2.3-.2 2.4-.3 2.3 0 2.3 .1 2.3 0 2.3 0 2.3 .1 2.3-.1 2.3-.1 2.3 .1 2.3 .1 2.3-.1 2.3 0 2.3-.1 2.3-.1 2.3 .3 2.3-.2 2.3 0 2.3 0 2.3 .2 2.3 .1 2.3-.1 2.3-.1 2.3 .1 2.3-.1 2.3 .1" stroke="#2ca02c" stroke-width="0.5" fill="none" stroke-opacity="0.5" stroke-linejoin="round"/>
<path d="M474.2 397.9l2.3-1.6 2.3-1.6 2.3-1 2.3-1.5 2.3-1.2 2.3-1.2 2.3-1.2 2.3-.9 2.3-.5 2.3-.9 2.3-.9 2.3-.6 2.3-.4 2.3-.7 2.3-.7 2.3-.5 2.3-.6 2.3-.4 2.3-.1 2.3-.1 2.3 0 2.3-.4 2.3-.2 2.3-.2 2.4-.3 2.3-.4 2.3-.1 2.3-.4 2.3-.3 2.3-.1 2.3 .1 2.3-.2 2.3 .1 2.3 0 2.3 0 2.3-.3 2.3 0 2.3 0 2.3-.2 2.3-.2 2.3 .2 2.3 0 2.3 0 2.3 .1 2.3 0 2.3 0 2.3 .2 2.3-.1 2.3 .2" stroke="#d62728" stroke-width="0.5" fill="none" stroke-opacity="0.5" stroke-linejoin="round"/>
<path d="M474.2 402.9l2.3-.7 2.3-.8 2.3-.8 2.3-.5 2.3-.6 2.3-.3 2.3-.4 2.3-.8 2.3-.3 2.3-.5 2.3-.3 2.3-.3 2.3-.1 2.3-.3 2.3-.4 2.3-.3 2.3 .2 2.3-.2 2.3-.2 2.3 0 2.3-.4 2.3-.3 2.3-.1 2.3-.4 2.4-.2 2.3-.2 2.3 0 2.3 0 2.3 .2 2.3 .1 2.3-.4 2.3-.1 2.3 .1 2.3-.2 2.3 .2 2.3 0 2.3-.2 2.3-.1 2.3 0 2.3-.1 2.3 0 2.3 .1 2.3 .3 2.3 .1 2.3 .2 2.3 .2 2.3 .3 2.3 0 2.3-.1" stroke="#9467bd" stroke-width="0.5" fill="none" stroke-opacity="0.5" stroke-linejoin="round"/>
<path d="M474.2 405.8l2.3-.6 2.3-.6 2.3-.6 2.3-.4 2.3-.4 2.3-.7 2.3-.4 2.3-.3 2.3-.3 2.3-.5 2.3-.1 2.3-.3 2.3-.6 2.3-.3 2.3 0 2.3-.3 2.3-.3 2.3-.1 2.3-.4 2.3-.5 2.3-.2 2.3 0 2.3-.2 2.3 0 2.4 0 2.3-.2 2.3-.1 2.3 .1 2.3 0 2.3-.1 2.3 .1 2.3 0 2.3 .1 2.3 0 2.3 .1 2.3-.2 2.3 .2 2.3 0 2.3-.1 2.3-.3 2.3-.1 2.3-.1 2.3-.1 2.3 0 2.3 .2 2.3 .2 2.3-.1 2.3 .1 2.3-.2" stroke="#8c564b" stroke-width="0.5" fill="none" stroke-opacity="0.5" stroke-linejoin="round"/>
<path d="M474.2 398.2l2.3-1 2.3-.7 2.3-.8 2.3-.7 2.3-.7 2.3-.7 2.3-.6 2.3-.5 2.3-.6 2.3-.3 2.3-.6 2.3-.6 2.3-.6 2.3 0 2.3-.2 2.3-.3 2.3 0 2.3-.2 2.3-.3 2.3 .4 2.3-.4 2.3-.5 2.3 .1 2.3-.1 2.4 0 2.3-.2 2.3-.1 2.3 .1 2.3 0 2.3-.1 2.3 .1 2.3-.1 2.3 .3 2.3-.4 2.3-.1 2.3-.2 2.3 .2 2.3 .2 2.3 0 2.3-.1 2.3-.3 2.3 0 2.3-.1 2.3-.1 2.3 .2 2.3 .5 2.3-.2 2.3-.1 2.3 .1" stroke="#e377c2" stroke-width="0.5" fill="none" stroke-opacity="0.5" stroke-linejoin="round"/>
<path d="M474.2 409l2.3-.8 2.3-.7 2.3-.7 2.3-.4 2.3-.6 2.3-.4 2.3-.3 2.3-.5 2.3-.1 2.3-.3 2.3-.2 2.3-.4 2.3-.2 2.3-.2 2.3-.3 2.3-.2 2.3-.2 2.3 0 2.3-.2 2.3-.3 2.3-.3 2.3-.2 2.3-.2 2.3-.2 2.4 0 2.3-.1 2.3-.1 2.3 0 2.3 0 2.3 0 2.3-.1 2.3-.2 2.3 .1 2.3 0 2.3-.2 2.3-.1 2.3-.1 2.3 0 2.3 0 2.3-.1 2.3 0 2.3 .2 2.3 .1 2.3-.3 2.3 .1 2.3 .2 2.3-.1 2.3 .1 2.3-.2" stroke="#7f7f7f" stroke-width="0.5" fill="none" stroke-opacity="0.5" stroke-linejoin="round"/>
<path d="M474.2 394l2.3-.7 2.3-.6 2.3-.6 2.3-.4 2.3-.4 2.3-.6 2.3-.2 2.3-.4 2.3-.8 2.3-.4 2.3-.4 2.3-.2 2.3-.6 2.3-.1 2.3-.1 2.3-.4 2.3-.1 2.3-.5 2.3-.5 2.3 .1 2.3 .1 2.3 0 2.3 .1 2.3-.3 2.4 0 2.3 .1 2.3-.6 2.3 .3 2.3 .3 2.3 0 2.3 .4 2.3 .3 2.3 .1 2.3-.3 2.3 0 2.3 .3 2.3 0 2.3-.4 2.3-.1 2.3 0 2.3-.3 2.3 .2 2.3 0 2.3 .5 2.3-.2 2.3-.2 2.3 .2 2.3 0 2.3 0" stroke="#bcbd22" stroke-width="0.5" fill="none" stroke-opacity="0.5" stroke-linejoin="round"/>
<path d="M474.2 399.1l2.3-1.1 2.3-.6 2.3-.7 2.3-.6 2.3-.7 2.3-.9 2.3-.8 2.3-.7 2.3-.3 2.3-.1 2.3-.4 2.3-.5 2.3-.3 2.3-.1 2.3-.3 2.3-.3 2.3 .2 2.3-.4 2.3-.1 2.3 0 2.3-.3 2.3-.3 2.3-.2 2.3-.3 2.4 .1 2.3 0 2.3-.2 2.3 .4 2.3 .3 2.3-.2 2.3-.2 2.3-.3 2.3 .2 2.3-.3 2.3 .1 2.3 .1 2.3 .1 2.3 0 2.3-.2 2.3-.4 2.3 .1 2.3 0 2.3 .3 2.3 0 2.3 .2 2.3-.1 2.3 .1 2.3 .1 2.3-.2" stroke="#17becf" stroke-width="0.5" fill="none" stroke-opacity="0.5" stroke-linejoin="round"/>
<polygon points="474.2,402.2 476.5,401.3 478.8,400.4 481.1,399.6 483.4,398.9 485.7,398.2 488,397.5 490.3,396.9 492.6,396.3 494.9,395.8 497.2,395.3 499.5,394.9 501.8,394.5 504.1,394.1 506.4,393.7 508.7,393.4 511,393.1 513.3,392.8 515.6,392.5 517.9,392.3 520.2,392 522.5,391.8 524.8,391.6 527.1,391.4 529.4,391.2 531.8,391.1 534.1,390.9 536.4,390.8 538.7,390.7 541,390.7 543.3,390.6 545.6,390.6 547.9,390.5 550.2,390.5 552.5,390.5 554.8,390.5 557.1,390.4 559.4,390.4 561.7,390.4 564,390.4 566.3,390.4 568.6,390.5 570.9,390.5 573.2,390.5 575.5,390.5 577.8,390.5 580.1,390.6 582.4,390.6 584.7,390.6 587,390.6 587,395 584.7,395 582.4,394.9 580.1,394.9 577.8,394.9 575.5,394.8 573.2,394.8 570.9,394.8 568.6,394.7 566.3,394.7 564,394.7 561.7,394.7 559.4,394.7 557.1,394.7 554.8,394.7 552.5,394.7 550.2,394.7 547.9,394.7 545.6,394.7 543.3,394.7 541,394.8 538.7,394.8 536.4,394.9 534.1,395 531.8,395.1 529.4,395.3 527.1,395.4 524.8,395.6 522.5,395.7 520.2,395.9 517.9,396.1 515.6,396.3 513.3,396.6 511,396.8 508.7,397.1 506.4,397.4 504.1,397.7 501.8,398.1 499.5,398.4 497.2,398.8 494.9,399.2 492.6,399.7 490.3,400.2 488,400.7 485.7,401.3 483.4,401.9 481.1,402.6 478.8,403.4 476.5,404.1 474.2,405" fill="#f0326a" fill-opacity="0.88"/>
<path d="M502.4 344.2V424.7" stroke="#f25c86" stroke-width="1.100" stroke-dasharray="4.400 1.800" fill="none"/>
</g>
<rect x="468.9" y="343.7" width="122.7" height="81" fill="none" stroke="#222" stroke-width=".8"/>
<path d="M474.2 424.7v2.200M502.4 424.7v2.200M530.6 424.7v2.200M558.8 424.7v2.200M587 424.7v2.200M488.3 424.7v1.300M516.5 424.7v1.300M544.7 424.7v1.300M572.9 424.7v1.300M468.9 416.1h-2.200M468.9 403.6h-2.200M468.9 391.1h-2.200M468.9 378.7h-2.200M468.9 366.2h-2.200M468.9 353.8h-2.200" stroke="#222" stroke-width=".6" fill="none"/>
<g font-size="7"><text x="474.2" y="433" text-anchor="middle">−1.0</text><text x="502.4" y="433" text-anchor="middle">0.0</text><text x="530.6" y="433" text-anchor="middle">1.0</text><text x="558.8" y="433" text-anchor="middle">2.0</text><text x="587" y="433" text-anchor="middle">3.0</text><text x="465.7" y="418.4" text-anchor="end">50</text><text x="465.7" y="406" text-anchor="end">100</text><text x="465.7" y="393.5" text-anchor="end">150</text><text x="465.7" y="381.1" text-anchor="end">200</text><text x="465.7" y="368.6" text-anchor="end">250</text><text x="465.7" y="356.2" text-anchor="end">300</text><text x="529" y="440.5" text-anchor="middle">Time (h)</text></g>
<text x="530.1" y="338.9" font-size="8.25" text-anchor="middle">Treatment (RIF 10 mg/L)</text>
<rect x="470.2" y="345.1" width="48.6" height="21.2" rx="1" fill="#fff" fill-opacity=".8" stroke="#ccc" stroke-width=".5"/>
<g font-size="5.75"><path d="M472.7 348.1h7.5" stroke="#f2557f" stroke-width=".8" stroke-dasharray="2.800 1.200"/><text x="482.7" y="350">Drug addition</text><rect x="472.7" y="353.1" width="7.5" height="3.400" fill="#f8a9c0"/><text x="482.7" y="356.7">Mean±SD</text><rect x="472.7" y="359.8" width="7.5" height="3.400" fill="#f2457a"/><text x="482.7" y="363.4">Mean±SEM</text></g>
<clipPath id="c8"><rect x="324.7" y="448.3" width="124.1" height="80.4"/></clipPath>
<rect x="324.7" y="448.3" width="124.1" height="80.4" fill="#fff"/>
<g clip-path="url(#c8)">
<polygon points="330.8,473.5 332.7,473.5 334.6,473.5 336.5,473.5 338.4,473.5 340.3,473.5 342.2,473.5 344.1,473.4 346,473.2 347.9,472.6 349.8,472.1 351.7,471.9 353.6,471.9 355.5,471.9 357.4,471.9 359.3,471.9 361.2,471.9 363.1,471.9 365,471.8 366.9,471.8 368.8,471.8 370.7,471.7 372.6,471.7 374.5,471.7 376.4,471.6 378.3,471.6 380.2,471.5 382.1,471.5 384,471.4 385.9,471.4 387.8,471.3 389.7,471.2 391.6,471.2 393.5,471.1 395.4,471.1 397.3,471 399.2,470.9 401.1,470.9 403,470.8 404.9,470.7 406.8,470.6 408.7,470.6 410.6,470.5 412.5,470.4 414.4,470.3 416.3,470.3 418.2,470.2 420.1,470.1 422,470 423.9,470 425.8,469.9 427.7,469.8 429.6,469.7 431.5,469.6 433.4,469.6 435.3,469.5 437.2,469.4 439.1,469.3 441,469.2 442.9,469.1 442.9,478.5 441,478.6 439.1,478.7 437.2,478.8 435.3,478.8 433.4,478.9 431.5,479 429.6,479.1 427.7,479.2 425.8,479.2 423.9,479.3 422,479.4 420.1,479.5 418.2,479.5 416.3,479.6 414.4,479.7 412.5,479.8 410.6,479.8 408.7,479.9 406.8,480 404.9,480.1 403,480.1 401.1,480.2 399.2,480.3 397.3,480.3 395.4,480.4 393.5,480.5 391.6,480.5 389.7,480.6 387.8,480.7 385.9,480.7 384,480.8 382.1,480.8 380.2,480.9 378.3,480.9 376.4,481 374.5,481 372.6,481.1 370.7,481.1 368.8,481.1 366.9,481.2 365,481.2 363.1,481.2 361.2,481.2 359.3,481.2 357.4,481.2 355.5,481.3 353.6,481.3 351.7,481.3 349.8,481.5 347.9,482 346,482.5 344.1,482.8 342.2,482.8 340.3,482.9 338.4,482.9 336.5,482.9 334.6,482.9 332.7,482.9 330.8,482.9" fill="#a9d9f1" fill-opacity="0.6"/>
<path d="M330.8 482.4l1.9-1.3 1.9-1.4 1.9-1.2 1.9-1.4 1.9-.6 1.9-.1 1.9 .2 1.9 .4 1.9 .4 1.9 .3 1.9 1.3 1.9 .2 1.9 .6 1.9-.3 1.9-.6 1.9-.9 1.9-1.2 1.9-1.3 1.9-.6 1.9-.3 1.9-1.2 1.9 .7 1.9 .7 1.9 .6 1.9 .9 1.9 1.3 1.9-.4 1.9 .2 1.9-.1 1.9-.7 1.9-.8 1.9 0 1.9-1.2 1.9-.4 1.9-.8 1.9 .1 1.9 .5 1.9 1 1.9-.3 1.9 1.3 1.9 .1 1.9-.4 1.9-.2 1.9 .3 1.9-.5 1.9 .6 1.9-.1 1.9 .2 1.9 .6 1.9 .1 1.9 .2 1.9-.3 1.9-1.1 1.9-.8 1.9-2.2 1.9-2.5 1.9-2.3 1.9-2.1 1.9-2.4" stroke="#9467bd" stroke-width="0.5" fill="none" stroke-opacity="0.36" stroke-linejoin="round"/>
<path d="M330.8 481.8l1.9 .3 1.9 .1 1.9-.3 1.9 .1 1.9-.9 1.9-.3 1.9-.8 1.9-1.2 1.9-1.2 1.9-.6 1.9 .2 1.9-.1 1.9 .7 1.9 0 1.9 .5 1.9 .6 1.9 .1 1.9 .2 1.9 0 1.9 .7 1.9-.2 1.9 .2 1.9-.7 1.9-1.4 1.9-1 1.9-.7 1.9-.3 1.9 1 1.9 1.1 1.9 .8 1.9 .5 1.9-.2 1.9-.3 1.9-1.3 1.9-1.9 1.9-2.3 1.9-1.1 1.9-.3 1.9 1.3 1.9 1.7 1.9 1.4 1.9 .8 1.9 .5 1.9-.4 1.9-.7 1.9-.5 1.9-.8 1.9-1 1.9-.6 1.9 .1 1.9-.4 1.9-.1 1.9-.3 1.9-.5 1.9 .1 1.9 .2 1.9 .4 1.9 .5 1.9 .9" stroke="#e377c2" stroke-width="0.5" fill="none" stroke-opacity="0.36" stroke-linejoin="round"/>
<path d="M330.8 479.1l1.9 .6 1.9 .7 1.9 .2 1.9 .3 1.9 .5 1.9-.5 1.9-.6 1.9-.8 1.9-.6 1.9 0 1.9 .3 1.9-.1 1.9-.6 1.9-.2 1.9-.7 1.9-.2 1.9-.9 1.9 .4 1.9-.3 1.9-.8 1.9 .1 1.9 .1 1.9 .5 1.9 .2 1.9 .7 1.9-.2 1.9 .6 1.9 .1 1.9-.6 1.9-1.3 1.9-1.2 1.9-.1 1.9-.8 1.9 .6 1.9 1.4 1.9 .9 1.9 1.8 1.9 1.2 1.9 .2 1.9-.8 1.9-.6 1.9-1.1 1.9-.8 1.9-.8 1.9-.8 1.9 0 1.9 .2 1.9-.8 1.9-1.3 1.9-1.1 1.9-.6 1.9-1.8 1.9-.8 1.9-.4 1.9-.1 1.9 0 1.9-.1 1.9 .1 1.9 .5" stroke="#7f7f7f" stroke-width="0.5" fill="none" stroke-opacity="0.36" stroke-linejoin="round"/>
<path d="M330.8 472.8l1.9-.1 1.9-.6 1.9-.2 1.9 0 1.9-.3 1.9 .2 1.9-.5 1.9-.6 1.9-.6 1.9-.4 1.9-.5 1.9-.1 1.9-.6 1.9 .9 1.9 0 1.9 .9 1.9 .7 1.9 .4 1.9 .7 1.9 .2 1.9-.8 1.9-.3 1.9-.2 1.9-.3 1.9-.3 1.9-.6 1.9 .2 1.9 .1 1.9-.9 1.9-.1 1.9 .1 1.9 .1 1.9-.1 1.9 0 1.9 .4 1.9 .9 1.9 .2 1.9-.4 1.9-1.5 1.9-1 1.9-.7 1.9-.5 1.9-.4 1.9 1.1 1.9-.2 1.9-.5 1.9-.3 1.9 .3 1.9-.7 1.9-.1 1.9 .2 1.9-.5 1.9-.1 1.9 1 1.9 .5 1.9 1.5 1.9 2 1.9 1.7 1.9 .6" stroke="#d62728" stroke-width="0.5" fill="none" stroke-opacity="0.36" stroke-linejoin="round"/>
<path d="M330.8 482l1.9-.7 1.9-.4 1.9 .1 1.9-.1 1.9-.3 1.9-.5 1.9-1.2 1.9-1.3 1.9-1.2 1.9-.8 1.9-1 1.9-.8 1.9 .1 1.9 .5 1.9 .8 1.9 .6 1.9 1 1.9 .4 1.9 .7 1.9 .1 1.9 .1 1.9-.2 1.9-1.3 1.9-.9 1.9-.8 1.9-.1 1.9-.2 1.9 .3 1.9 .3 1.9 1.1 1.9 .9 1.9 .7 1.9 1.1 1.9 .1 1.9-.5 1.9-.6 1.9-.3 1.9 0 1.9-.4 1.9-.1 1.9 1 1.9 .5 1.9 .7 1.9 .3 1.9-.1 1.9-.6 1.9-.6 1.9-2.2 1.9-1.5 1.9-.7 1.9-1.9 1.9-1.8 1.9-.5 1.9-.7 1.9-.1 1.9 .6 1.9 1.1 1.9 .6 1.9 .8" stroke="#bcbd22" stroke-width="0.5" fill="none" stroke-opacity="0.36" stroke-linejoin="round"/>
<path d="M330.8 478.1l1.9-.2 1.9 .3 1.9 .4 1.9 .1 1.9 .3 1.9 .7 1.9 .4 1.9-.5 1.9-.7 1.9-1.1 1.9-1.5 1.9 .2 1.9 .2 1.9-.3 1.9 0 1.9 .3 1.9-1.2 1.9-.6 1.9-.9 1.9-.6 1.9-.9 1.9-1 1.9 .1 1.9 .8 1.9 .7 1.9 .4 1.9 .2 1.9 0 1.9-.1 1.9-.3 1.9-1.2 1.9-.5 1.9 .4 1.9 .7 1.9 1 1.9 1.2 1.9 1.3 1.9 1 1.9 1.9 1.9 1 1.9 1.6 1.9 .8 1.9-.4 1.9-1.3 1.9-1.6 1.9-2.1 1.9-2.3 1.9-2 1.9-1.4 1.9 .5 1.9 .8 1.9 1.4 1.9 .7 1.9 0 1.9-.6 1.9-1.1 1.9-.8 1.9-.1 1.9-.1" stroke="#17becf" stroke-width="0.5" fill="none" stroke-opacity="0.36" stroke-linejoin="round"/>
<path d="M330.8 475l1.9 .4 1.9 .7 1.9 .6 1.9 .5 1.9 .7 1.9-.7 1.9-.7 1.9-1 1.9-1.7 1.9-2.2 1.9-1.1 1.9-.4 1.9 0 1.9-.1 1.9 .7 1.9 .1 1.9 0 1.9 .3 1.9-.6 1.9-.7 1.9 1.2 1.9 .4 1.9 .5 1.9 1.2 1.9 2.1 1.9-.1 1.9-.4 1.9-.4 1.9-1.1 1.9-1.5 1.9-1.1 1.9-1.1 1.9-.5 1.9-.4 1.9 .6 1.9 .2 1.9 1 1.9 2.2 1.9 1.6 1.9 1.1 1.9 1.2 1.9 1.4 1.9-.2 1.9 .2 1.9 .2 1.9-.7 1.9-.1 1.9-.6 1.9-.1 1.9-.9 1.9-.7 1.9-.8 1.9-.6 1.9-.1 1.9 1.1 1.9 1.4 1.9 2 1.9 2 1.9 1.5" stroke="#1f77b4" stroke-width="0.5" fill="none" stroke-opacity="0.36" stroke-linejoin="round"/>
<path d="M330.8 475.8l1.9 .2 1.9 .4 1.9 .4 1.9 .4 1.9 .1 1.9 0 1.9-.5 1.9-.2 1.9-.7 1.9-.5 1.9-.5 1.9 .3 1.9 .3 1.9 1.2 1.9 1.4 1.9 .7 1.9-.6 1.9 .1 1.9-.4 1.9-.2 1.9-.7 1.9-.3 1.9-.5 1.9-.5 1.9-.8 1.9 .1 1.9 .7 1.9-.3 1.9 .1 1.9 .3 1.9 0 1.9 1.2 1.9 .2 1.9-.1 1.9-.1 1.9 0 1.9-.6 1.9-.6 1.9-.6 1.9 .2 1.9-1.2 1.9-.3 1.9-.2 1.9-.8 1.9-.6 1.9 .3 1.9-.5 1.9 .3 1.9 .3 1.9 .2 1.9-.1 1.9-.7 1.9-.8 1.9-2.1 1.9-2.6 1.9-2.6 1.9-3 1.9-2.8 1.9-2" stroke="#9467bd" stroke-width="0.5" fill="none" stroke-opacity="0.36" stroke-linejoin="round"/>
<path d="M330.8 480.4l1.9 .3 1.9 .2 1.9-.4 1.9-.2 1.9-.5 1.9-.3 1.9 .1 1.9-.5 1.9-.9 1.9-1.1 1.9-.6 1.9-.2 1.9 .3 1.9 .5 1.9 .5 1.9 .5 1.9 .6 1.9 .3 1.9 .2 1.9 0 1.9-.7 1.9-.8 1.9-.8 1.9 .4 1.9-.3 1.9-.2 1.9-.3 1.9-.4 1.9-.6 1.9 .4 1.9 .5 1.9-.3 1.9 .1 1.9 .6 1.9-.4 1.9 .2 1.9 .3 1.9-.2 1.9-.7 1.9-.2 1.9-.2 1.9 .8 1.9 .9 1.9 0 1.9 .3 1.9-.8 1.9-.1 1.9-.9 1.9-.4 1.9-.1 1.9 0 1.9-.1 1.9 .9 1.9 .7 1.9 .4 1.9-.4 1.9-1.3 1.9-1.4 1.9-1.3" stroke="#bcbd22" stroke-width="0.5" fill="none" stroke-opacity="0.36" stroke-linejoin="round"/>
<path d="M330.8 477.2l1.9 0 1.9-.1 1.9-.1 1.9-.1 1.9 .2 1.9 .3 1.9 .3 1.9-.3 1.9-.2 1.9-1.3 1.9-.3 1.9 0 1.9 0 1.9 .7 1.9 .6 1.9 0 1.9-.5 1.9 .1 1.9-.5 1.9-.5 1.9-1.2 1.9-.3 1.9 .7 1.9 0 1.9 .4 1.9 .5 1.9 0 1.9 .9 1.9 1.3 1.9 .4 1.9 1.3 1.9 .9 1.9-.2 1.9 0 1.9-.1 1.9 0 1.9 .6 1.9-1.1 1.9-.3 1.9 .3 1.9 .5 1.9 .1 1.9-.2 1.9-.4 1.9 0 1.9-.7 1.9-1.2 1.9-1.5 1.9-.6 1.9-1.1 1.9-1.2 1.9-1.1 1.9-.3 1.9-.9 1.9-.4 1.9-.8 1.9-1.2 1.9-.4 1.9-.6" stroke="#7f7f7f" stroke-width="0.5" fill="none" stroke-opacity="0.36" stroke-linejoin="round"/>
<path d="M330.8 473.7l1.9 1.4 1.9 1.7 1.9 1.5 1.9 1.1 1.9 .2 1.9-.2 1.9-.3 1.9-1.6 1.9-1.8 1.9-.6 1.9-.5 1.9-.1 1.9 .2 1.9 .2 1.9 .8 1.9-.1 1.9-.7 1.9 0 1.9-.3 1.9-1.1 1.9-.6 1.9-1.1 1.9 .1 1.9 .3 1.9 .2 1.9 1.2 1.9 1.3 1.9 1.4 1.9 1.6 1.9 1.1 1.9 1.2 1.9 .9 1.9 .5 1.9-.6 1.9-.4 1.9-2 1.9-1.8 1.9-2.3 1.9-1.7 1.9-1.2 1.9-.5 1.9-.2 1.9 1 1.9 .8 1.9 .6 1.9 .8 1.9-.2 1.9-1.1 1.9 0 1.9-.7 1.9 .5 1.9 1.7 1.9 1.9 1.9 1.8 1.9 2.3 1.9 2.6 1.9 2.8 1.9 1.7 1.9 1.5" stroke="#2ca02c" stroke-width="0.5" fill="none" stroke-opacity="0.36" stroke-linejoin="round"/>
<path d="M330.8 478.4l1.9-.4 1.9-.2 1.9-.3 1.9-.2 1.9-.3 1.9-.5 1.9-.4 1.9-.5 1.9-.2 1.9-.2 1.9 .1 1.9 .2 1.9 .1 1.9 .2 1.9-.1 1.9-.1 1.9-.9 1.9 .2 1.9-.4 1.9-.2 1.9 1.1 1.9 1 1.9 .7 1.9 .9 1.9 .5 1.9 .4 1.9 .9 1.9-.2 1.9 .3 1.9 0 1.9 .4 1.9 0 1.9-.4 1.9-1.2 1.9-1.1 1.9-2 1.9-1.7 1.9-.6 1.9 0 1.9 .5 1.9 .1 1.9-.2 1.9 1.3 1.9 .4 1.9-.8 1.9-1.3 1.9-1 1.9-1.6 1.9-.7 1.9 .1 1.9 .3 1.9 1.8 1.9 1.3 1.9 .4 1.9 1.1 1.9 .5 1.9-1.2 1.9-1.9 1.9-1.2" stroke="#bcbd22" stroke-width="0.5" fill="none" stroke-opacity="0.36" stroke-linejoin="round"/>
<path d="M330.8 480l1.9 .2 1.9-.1 1.9 .1 1.9 .4 1.9 .5 1.9 .3 1.9 .2 1.9-.7 1.9-.6 1.9-.9 1.9-.2 1.9-.1 1.9-.1 1.9 .1 1.9-.1 1.9-.5 1.9-.6 1.9 .2 1.9-.4 1.9 .1 1.9 .2 1.9-.3 1.9 .1 1.9-1.3 1.9-1.8 1.9-1.7 1.9-.8 1.9 .3 1.9 .5 1.9 1.3 1.9 1.4 1.9 1.6 1.9 .8 1.9 .2 1.9-.9 1.9-1.5 1.9-1.1 1.9-1.3 1.9-.6 1.9 .7 1.9 1.2 1.9 1.4 1.9 .9 1.9 .3 1.9 .4 1.9-.2 1.9-.9 1.9-1 1.9-.3 1.9-.2 1.9-.4 1.9 .2 1.9-.3 1.9 0 1.9-2.3 1.9-1.8 1.9-2.4 1.9-2.4 1.9-2" stroke="#2ca02c" stroke-width="0.5" fill="none" stroke-opacity="0.36" stroke-linejoin="round"/>
<path d="M330.8 488.9l1.9-1.1 1.9-1 1.9-1 1.9-1.1 1.9-.8 1.9-.9 1.9-1.1 1.9-.3 1.9-1.2 1.9-.8 1.9-.1 1.9-.6 1.9-1.1 1.9-.3 1.9-.3 1.9 .2 1.9 0 1.9-.2 1.9 0 1.9 0 1.9 .3 1.9 0 1.9 0 1.9 .4 1.9 0 1.9 0 1.9 .5 1.9 .4 1.9 .1 1.9-.2 1.9-.1 1.9 .4 1.9 .3 1.9-.3 1.9 .1 1.9-.5 1.9-.7 1.9-1.3 1.9-.6 1.9-.3 1.9-.2 1.9 .3 1.9 1 1.9 1 1.9 1.1 1.9 .5 1.9 0 1.9-1.3 1.9-1.6 1.9-1.9 1.9-2.9 1.9-1.4 1.9-1.3 1.9-1.6 1.9-1.6 1.9-1.8 1.9-2.2 1.9-1.8 1.9-1.2" stroke="#e377c2" stroke-width="0.5" fill="none" stroke-opacity="0.36" stroke-linejoin="round"/>
<path d="M330.8 483l1.9-.6 1.9-.9 1.9-.9 1.9-.2 1.9-.8 1.9 .2 1.9-.2 1.9 .1 1.9-.2 1.9-.6 1.9-.8 1.9-.9 1.9-.7 1.9-.5 1.9 0 1.9 .4 1.9 .7 1.9 1.3 1.9 .1 1.9 1.4 1.9 .1 1.9 .3 1.9-1.3 1.9-1.9 1.9-1.2 1.9-1.9 1.9-1.4 1.9-1.1 1.9-.2 1.9 .7 1.9 .7 1.9 1.6 1.9 1.9 1.9 2.5 1.9 .9 1.9 .4 1.9 .1 1.9-.1 1.9-1 1.9-1.4 1.9-.4 1.9-.1 1.9 .1 1.9 1 1.9 .6 1.9 1.4 1.9 0 1.9 .1 1.9-.5 1.9-.3 1.9-.5 1.9-.6 1.9-1.1 1.9-.2 1.9-.1 1.9 .3 1.9 .9 1.9 1.5 1.9 .5" stroke="#17becf" stroke-width="0.5" fill="none" stroke-opacity="0.36" stroke-linejoin="round"/>
<path d="M330.8 477.7l1.9-.3 1.9 0 1.9 .1 1.9 .1 1.9 0 1.9-.3 1.9-.8 1.9-.4 1.9-.7 1.9-1 1.9-1.2 1.9-.1 1.9-.6 1.9 1.1 1.9 0 1.9 .2 1.9 .2 1.9 .5 1.9-.5 1.9-.4 1.9 .4 1.9-.3 1.9-.9 1.9-.6 1.9 .2 1.9 .7 1.9 0 1.9 .7 1.9 .4 1.9 .1 1.9 .6 1.9 .2 1.9-.5 1.9-.4 1.9-.7 1.9-1.7 1.9-.4 1.9-.8 1.9 .3 1.9-.3 1.9 .4 1.9 .6 1.9 .6 1.9 .3 1.9 .8 1.9 .4 1.9 .6 1.9-.3 1.9-.4 1.9-.5 1.9-.4 1.9-1 1.9-.3 1.9-.9 1.9-.6 1.9-.8 1.9-1.5 1.9-1.1 1.9-.8" stroke="#2ca02c" stroke-width="0.5" fill="none" stroke-opacity="0.36" stroke-linejoin="round"/>
<path d="M330.8 472.9l1.9 .5 1.9 .9 1.9 1.4 1.9 .6 1.9 .6 1.9-.2 1.9-.3 1.9-.8 1.9-.9 1.9-.8 1.9-.7 1.9-.5 1.9-.2 1.9 0 1.9 .9 1.9 .9 1.9 1.2 1.9 1 1.9 .9 1.9-.2 1.9 .7 1.9-1 1.9-.9 1.9-1.7 1.9-1.5 1.9-1.3 1.9-.9 1.9-.9 1.9-.3 1.9-.6 1.9-.1 1.9 0 1.9-.5 1.9-.7 1.9-.1 1.9-.7 1.9 1 1.9 1.8 1.9 2.1 1.9 1.5 1.9 2.3 1.9 .9 1.9 1 1.9 .3 1.9-.1 1.9-.5 1.9-.6 1.9-.8 1.9-.9 1.9-1.3 1.9-2.2 1.9-1.9 1.9-2.4 1.9-1.9 1.9-.9 1.9-.3 1.9 .1 1.9 .6 1.9 .6" stroke="#1f77b4" stroke-width="0.5" fill="none" stroke-opacity="0.36" stroke-linejoin="round"/>
<path d="M330.8 476l1.9-.1 1.9-.6 1.9-1 1.9-.9 1.9-.2 1.9 .5 1.9 .2 1.9 .4 1.9-.4 1.9-.1 1.9-.6 1.9-.6 1.9-1 1.9 0 1.9 .3 1.9 .4 1.9 .5 1.9 .8 1.9 1.2 1.9-.3 1.9 .1 1.9-.7 1.9-.7 1.9-.7 1.9-1 1.9-.2 1.9 .8 1.9 .1 1.9 1 1.9 0 1.9 0 1.9 0 1.9 .6 1.9-.2 1.9-.3 1.9-.6 1.9 .8 1.9-.5 1.9-.8 1.9-.8 1.9-1.1 1.9-.7 1.9-.5 1.9-.7 1.9 0 1.9 .1 1.9 .6 1.9 .7 1.9-.1 1.9 .5 1.9 .3 1.9-1 1.9 .5 1.9 .5 1.9 .9 1.9 .6 1.9-.3 1.9-.2 1.9 0" stroke="#8c564b" stroke-width="0.5" fill="none" stroke-opacity="0.36" stroke-linejoin="round"/>
<path d="M330.8 478.5l1.9 0 1.9-.3 1.9 0 1.9 .1 1.9 .5 1.9 .4 1.9 .3 1.9 .2 1.9-.2 1.9 .1 1.9 0 1.9 .2 1.9-1.3 1.9-1 1.9-1.5 1.9-1.7 1.9-.3 1.9 .1 1.9 .2 1.9 1.2 1.9 1.6 1.9 1 1.9 .9 1.9 .8 1.9 .7 1.9 1 1.9 .2 1.9 .1 1.9 .5 1.9-.3 1.9-.2 1.9-1.2 1.9-.3 1.9-.8 1.9-.9 1.9-.5 1.9 .5 1.9-.7 1.9-.3 1.9-.8 1.9-1.3 1.9-.8 1.9-.4 1.9-.3 1.9 .5 1.9-.6 1.9 .1 1.9-.3 1.9 .2 1.9-.4 1.9 .8 1.9 0 1.9 .7 1.9 .1 1.9 1.1 1.9 .7 1.9 .7 1.9 1.2 1.9 .9" stroke="#9467bd" stroke-width="0.5" fill="none" stroke-opacity="0.36" stroke-linejoin="round"/>
<path d="M330.8 474.6l1.9 .5 1.9 .3 1.9-.3 1.9 .3 1.9 .6 1.9 .2 1.9 .2 1.9 .7 1.9-.3 1.9 .5 1.9-1 1.9-.2 1.9 0 1.9-1.1 1.9-1.1 1.9-1.3 1.9-.6 1.9 .8 1.9 .6 1.9 .3 1.9 .9 1.9 1.2 1.9 .2 1.9 .2 1.9-.5 1.9 .3 1.9 .5 1.9-1.1 1.9-.7 1.9-.8 1.9-1 1.9-.8 1.9-.6 1.9-.9 1.9 0 1.9 .6 1.9 .9 1.9 .6 1.9 1.5 1.9 .6 1.9-.5 1.9-.1 1.9 .2 1.9 .1 1.9 .5 1.9 0 1.9-1.5 1.9-.6 1.9-1 1.9-.8 1.9-.1 1.9 1.6 1.9 1 1.9 2.2 1.9 2.4 1.9 2.9 1.9 2 1.9 2.5 1.9 1.4" stroke="#e377c2" stroke-width="0.5" fill="none" stroke-opacity="0.36" stroke-linejoin="round"/>
<path d="M330.8 479.2l1.9 .1 1.9 .6 1.9 .4 1.9-.2 1.9-.3 1.9-.2 1.9-.7 1.9-.7 1.9-.8 1.9-.5 1.9-1 1.9 .2 1.9-.4 1.9 0 1.9 .2 1.9-.8 1.9-1.1 1.9-.4 1.9-.4 1.9-1.2 1.9 .3 1.9 0 1.9 .1 1.9 .2 1.9 .9 1.9 1 1.9 .9 1.9 1.1 1.9 .5 1.9-.2 1.9 .4 1.9 .2 1.9-1.5 1.9-.6 1.9-.7 1.9-.6 1.9-.8 1.9-.2 1.9-.2 1.9-.3 1.9-.8 1.9-.8 1.9-1.3 1.9-.5 1.9 .2 1.9 0 1.9 .6 1.9 2 1.9 1.5 1.9 1.2 1.9 1.2 1.9 1.1 1.9 .8 1.9 .7 1.9 .1 1.9 .1 1.9 .3 1.9 .5 1.9 .2" stroke="#ff7f0e" stroke-width="0.5" fill="none" stroke-opacity="0.36" stroke-linejoin="round"/>
<path d="M330.8 483.9l1.9-.8 1.9-1 1.9-1.2 1.9-1.4 1.9-.8 1.9-.3 1.9-.5 1.9-.3 1.9-.7 1.9 .2 1.9 0 1.9 .1 1.9 .5 1.9 .9 1.9 .1 1.9 .1 1.9 0 1.9 .5 1.9 .2 1.9-.1 1.9 .6 1.9 0 1.9-.3 1.9-.6 1.9-1 1.9-1.2 1.9-.3 1.9-1 1.9-.9 1.9 .7 1.9-.1 1.9 0 1.9 .2 1.9 .9 1.9-.9 1.9-.5 1.9-.1 1.9 .3 1.9-.6 1.9 .7 1.9-.7 1.9-.1 1.9-1.7 1.9-.2 1.9-.5 1.9 0 1.9 .9 1.9 1.8 1.9 2 1.9 2.1 1.9 2.8 1.9 2.2 1.9 1.6 1.9 1.7 1.9 .5 1.9 .5 1.9 .3 1.9 .6 1.9 .4" stroke="#17becf" stroke-width="0.5" fill="none" stroke-opacity="0.36" stroke-linejoin="round"/>
<path d="M330.8 480.3l1.9 .2 1.9-.1 1.9-.6 1.9-1.1 1.9-.1 1.9-.3 1.9-.2 1.9-.1 1.9-.4 1.9-.4 1.9 .9 1.9 .3 1.9 .5 1.9-.1 1.9-.3 1.9-1.3 1.9-1 1.9-1.1 1.9 .5 1.9 .5 1.9 .6 1.9 1.3 1.9 1.4 1.9 1 1.9 .5 1.9 .3 1.9-.7 1.9-.5 1.9-.4 1.9-.7 1.9-.6 1.9 .5 1.9 1.1 1.9-.2 1.9-.4 1.9-1.2 1.9-1.2 1.9-.7 1.9-1.4 1.9-1.2 1.9-.7 1.9-.2 1.9-.9 1.9 0 1.9 .6 1.9 .2 1.9 .2 1.9 .1 1.9 .2 1.9 .3 1.9 1.3 1.9 1 1.9 .2 1.9 .6 1.9 1 1.9 .9 1.9 .8 1.9 1.6 1.9 1.5" stroke="#ff7f0e" stroke-width="0.5" fill="none" stroke-opacity="0.36" stroke-linejoin="round"/>
<path d="M330.8 479.2l1.9-.3 1.9-.3 1.9-.3 1.9-.1 1.9-.5 1.9 0 1.9 0 1.9 .2 1.9-.4 1.9-.3 1.9-.2 1.9-.3 1.9-.1 1.9-.5 1.9-.1 1.9 0 1.9-.2 1.9-.3 1.9-.1 1.9-.1 1.9 .2 1.9 0 1.9-.4 1.9 .3 1.9 .1 1.9 .2 1.9 .9 1.9 1.3 1.9 1 1.9 1.4 1.9-.1 1.9 .4 1.9 .2 1.9-.1 1.9 .2 1.9 .6 1.9-1.1 1.9-.4 1.9-.5 1.9-.9 1.9-.9 1.9-1.6 1.9-1.5 1.9-1.1 1.9-.9 1.9 .4 1.9 .7 1.9 1.2 1.9 .3 1.9 .3 1.9 .4 1.9-.2 1.9-.5 1.9-1.9 1.9-2 1.9-3 1.9-1.9 1.9-2.2 1.9-.9" stroke="#2ca02c" stroke-width="0.5" fill="none" stroke-opacity="0.36" stroke-linejoin="round"/>
<path d="M330.8 477.4l1.9 .2 1.9-.1 1.9 .1 1.9 .5 1.9 .8 1.9 .8 1.9 1.1 1.9-.3 1.9-.6 1.9-.7 1.9-.6 1.9-.1 1.9 .2 1.9-.3 1.9-.2 1.9 .1 1.9 .5 1.9-.1 1.9-.9 1.9-1.2 1.9-1.1 1.9-1.2 1.9-.4 1.9-.3 1.9 .5 1.9 1.2 1.9 .6 1.9 .9 1.9 .8 1.9 .9 1.9 .5 1.9-.3 1.9-.2 1.9-1.1 1.9-.6 1.9-1 1.9-1.1 1.9-.8 1.9-.1 1.9 .7 1.9 .9 1.9 .9 1.9 1 1.9 1.1 1.9 1.3 1.9-.4 1.9 0 1.9 0 1.9-.4 1.9-1.4 1.9-1 1.9-2 1.9-.6 1.9-1.2 1.9-1.5 1.9-.6 1.9 .6 1.9-.5 1.9 .2" stroke="#8c564b" stroke-width="0.5" fill="none" stroke-opacity="0.36" stroke-linejoin="round"/>
<path d="M330.8 481.3l1.9-.5 1.9-.8 1.9-.8 1.9-1 1.9-.5 1.9-.5 1.9 .1 1.9-.6 1.9 .2 1.9 0 1.9 0 1.9-.3 1.9 .5 1.9 .3 1.9-.7 1.9 .3 1.9-.2 1.9 .2 1.9 .5 1.9 .2 1.9 .1 1.9-.4 1.9 0 1.9-1.3 1.9-1.2 1.9 .2 1.9 0 1.9-.2 1.9-.7 1.9 .1 1.9-.2 1.9 .4 1.9 .5 1.9 .6 1.9 .4 1.9 .9 1.9 1 1.9 .4 1.9 .5 1.9 .5 1.9-1.4 1.9-1.1 1.9-.8 1.9-2.1 1.9-1.2 1.9-1.3 1.9-1.1 1.9-.8 1.9 0 1.9 0 1.9 .7 1.9 .3 1.9-.1 1.9-.2 1.9-.2 1.9-.2 1.9-.3 1.9-.5 1.9 .5" stroke="#7f7f7f" stroke-width="0.5" fill="none" stroke-opacity="0.36" stroke-linejoin="round"/>
<path d="M330.8 483.8l1.9-.5 1.9-.8 1.9-.7 1.9-1 1.9-1.4 1.9-1.9 1.9-1.3 1.9-1.7 1.9-1.4 1.9-.8 1.9-.3 1.9 .3 1.9 1.2 1.9 1.1 1.9 1.2 1.9 1.2 1.9 .7 1.9-.3 1.9 .4 1.9 .3 1.9 .1 1.9 0 1.9 .3 1.9 1.1 1.9 .7 1.9-.2 1.9-.1 1.9-1.2 1.9-1.6 1.9-.9 1.9-.8 1.9-.1 1.9 0 1.9-.5 1.9-.2 1.9 .1 1.9-.4 1.9 0 1.9-.6 1.9-1.3 1.9 .3 1.9 .1 1.9 1.3 1.9 1.2 1.9 .4 1.9-.8 1.9-.1 1.9-.6 1.9-.2 1.9-.4 1.9 0 1.9 .4 1.9 1.4 1.9 1 1.9 1.1 1.9 .3 1.9 .1 1.9-.6 1.9-.7" stroke="#e377c2" stroke-width="0.5" fill="none" stroke-opacity="0.36" stroke-linejoin="round"/>
<path d="M330.8 476.6l1.9 .7 1.9 .5 1.9 .3 1.9 .8 1.9 .7 1.9 0 1.9-.2 1.9 .2 1.9-.6 1.9-.9 1.9 .1 1.9-.5 1.9-.5 1.9-.7 1.9-.3 1.9-1 1.9 .3 1.9 .3 1.9 .3 1.9 1.3 1.9 1.2 1.9 .4 1.9-.1 1.9 .4 1.9-1.2 1.9-1.4 1.9-.3 1.9-.2 1.9-.3 1.9-.1 1.9 .3 1.9-.6 1.9-.2 1.9 .1 1.9-.7 1.9 .5 1.9 .9 1.9 1.2 1.9 .9 1.9 1.2 1.9 .5 1.9 .3 1.9-1 1.9-1.5 1.9-1.3 1.9-.4 1.9-.5 1.9 .3 1.9 .4 1.9 1 1.9 .5 1.9 .2 1.9-.4 1.9-.4 1.9-.3 1.9-.2 1.9 .6 1.9 .7 1.9 .8" stroke="#ff7f0e" stroke-width="0.5" fill="none" stroke-opacity="0.36" stroke-linejoin="round"/>
<path d="M330.8 475.7l1.9 .3 1.9 .5 1.9 .3 1.9 .9 1.9 .9 1.9 .4 1.9 .3 1.9 .5 1.9-.2 1.9-.6 1.9-.2 1.9 .2 1.9-.1 1.9 .4 1.9-.5 1.9 1 1.9 .9 1.9 1.6 1.9 .6 1.9 .4 1.9 .2 1.9-.3 1.9-1.1 1.9-1.6 1.9-1.6 1.9-2.1 1.9-1.2 1.9-.7 1.9-.6 1.9 .2 1.9 .3 1.9 1.1 1.9 .5 1.9 .6 1.9 1.3 1.9 .2 1.9-.7 1.9-.6 1.9-.2 1.9-.9 1.9 .1 1.9-1.8 1.9-.5 1.9-.5 1.9-.8 1.9-.5 1.9 .3 1.9 .1 1.9 .4 1.9 .2 1.9 .3 1.9 1.2 1.9 .4 1.9-.8 1.9-1.2 1.9-1.8 1.9-1.8 1.9-1.6 1.9-.6" stroke="#e377c2" stroke-width="0.5" fill="none" stroke-opacity="0.36" stroke-linejoin="round"/>
<path d="M330.8 479.2l1.9 0 1.9 0 1.9 .2 1.9 .1 1.9 .2 1.9 0 1.9-.2 1.9-.5 1.9-1 1.9-.7 1.9-.8 1.9 .8 1.9 0 1.9 .5 1.9 .7 1.9 1 1.9 .8 1.9 .7 1.9 .4 1.9 .1 1.9-.6 1.9-.5 1.9-1.2 1.9-.2 1.9-1 1.9-.2 1.9-.8 1.9 .9 1.9 .8 1.9 1.2 1.9 .7 1.9 .2 1.9-.6 1.9-.8 1.9-1.3 1.9-1.4 1.9-1.6 1.9-1.4 1.9-1.7 1.9-1.5 1.9 .3 1.9 .8 1.9 1.1 1.9 1.9 1.9 1.6 1.9 .6 1.9 1 1.9 .5 1.9-1.2 1.9-.5 1.9-.6 1.9-.5 1.9 0 1.9 .1 1.9 .6 1.9 .5 1.9 .5 1.9 .7 1.9 0" stroke="#bcbd22" stroke-width="0.5" fill="none" stroke-opacity="0.36" stroke-linejoin="round"/>
<polygon points="330.8,476.8 332.7,476.8 334.6,476.8 336.5,476.8 338.4,476.8 340.3,476.8 342.2,476.8 344.1,476.7 346,476.5 347.9,475.9 349.8,475.4 351.7,475.2 353.6,475.2 355.5,475.2 357.4,475.2 359.3,475.2 361.2,475.2 363.1,475.2 365,475.1 366.9,475.1 368.8,475.1 370.7,475.1 372.6,475 374.5,475 376.4,474.9 378.3,474.9 380.2,474.8 382.1,474.8 384,474.7 385.9,474.7 387.8,474.6 389.7,474.6 391.6,474.5 393.5,474.4 395.4,474.4 397.3,474.3 399.2,474.2 401.1,474.2 403,474.1 404.9,474 406.8,473.9 408.7,473.9 410.6,473.8 412.5,473.7 414.4,473.7 416.3,473.6 418.2,473.5 420.1,473.4 422,473.3 423.9,473.3 425.8,473.2 427.7,473.1 429.6,473 431.5,472.9 433.4,472.9 435.3,472.8 437.2,472.7 439.1,472.6 441,472.5 442.9,472.5 442.9,475.2 441,475.3 439.1,475.4 437.2,475.4 435.3,475.5 433.4,475.6 431.5,475.7 429.6,475.8 427.7,475.8 425.8,475.9 423.9,476 422,476.1 420.1,476.2 418.2,476.2 416.3,476.3 414.4,476.4 412.5,476.5 410.6,476.5 408.7,476.6 406.8,476.7 404.9,476.8 403,476.8 401.1,476.9 399.2,477 397.3,477 395.4,477.1 393.5,477.2 391.6,477.2 389.7,477.3 387.8,477.4 385.9,477.4 384,477.5 382.1,477.5 380.2,477.6 378.3,477.6 376.4,477.7 374.5,477.7 372.6,477.8 370.7,477.8 368.8,477.8 366.9,477.9 365,477.9 363.1,477.9 361.2,477.9 359.3,477.9 357.4,477.9 355.5,477.9 353.6,477.9 351.7,478 349.8,478.2 347.9,478.7 346,479.2 344.1,479.5 342.2,479.5 340.3,479.6 338.4,479.6 336.5,479.6 334.6,479.6 332.7,479.6 330.8,479.6" fill="#2a9fd8" fill-opacity="0.95"/>
<path d="M346.3 448.8V528.7" stroke="#f25c86" stroke-width="1.100" stroke-dasharray="4.400 1.800" fill="none"/>
</g>
<rect x="324.7" y="448.3" width="124.1" height="80.4" fill="none" stroke="#222" stroke-width=".8"/>
<path d="M346.3 528.7v2.200M378.5 528.7v2.200M410.7 528.7v2.200M442.9 528.7v2.200M330.2 528.7v1.300M362.4 528.7v1.300M394.6 528.7v1.300M426.8 528.7v1.300M324.7 521.1h-2.200M324.7 506.7h-2.200M324.7 492.3h-2.200M324.7 477.9h-2.200M324.7 463.5h-2.200M324.7 449.1h-2.200" stroke="#222" stroke-width=".6" fill="none"/>
<g font-size="7"><text x="346.3" y="537" text-anchor="middle">0.0</text><text x="378.5" y="537" text-anchor="middle">1.0</text><text x="410.7" y="537" text-anchor="middle">2.0</text><text x="442.9" y="537" text-anchor="middle">3.0</text><text x="321.5" y="523.5" text-anchor="end">−0.4</text><text x="321.5" y="509.1" text-anchor="end">−0.2</text><text x="321.5" y="494.7" text-anchor="end">0.0</text><text x="321.5" y="480.3" text-anchor="end">0.2</text><text x="321.5" y="465.9" text-anchor="end">0.4</text><text x="321.5" y="451.5" text-anchor="end">0.6</text><text x="379" y="542.8" text-anchor="middle">Time (h)</text><text transform="translate(306.5 488) rotate(-90)" text-anchor="middle">Growth rate (h⁻¹)</text></g>
<rect x="400.2" y="505.8" width="47.3" height="21.3" rx="1" fill="#fff" fill-opacity=".8" stroke="#ccc" stroke-width=".5"/>
<g font-size="5.75"><path d="M402.7 508.8h7.5" stroke="#f2557f" stroke-width=".8" stroke-dasharray="2.800 1.200"/><text x="412.7" y="510.7">Drug addition</text><rect x="402.7" y="513.8" width="7.5" height="3.400" fill="#a9d9f1"/><text x="412.7" y="517.4">Mean±SD</text><rect x="402.7" y="520.5" width="7.5" height="3.400" fill="#2a9fd8"/><text x="412.7" y="524.1">Mean±SEM</text></g>
<clipPath id="c9"><rect x="468.9" y="448.3" width="123.3" height="80.4"/></clipPath>
<rect x="468.9" y="448.3" width="123.3" height="80.4" fill="#fff"/>
<g clip-path="url(#c9)">
<polygon points="474.1,474.3 476.1,474.4 478,474.5 479.9,474.5 481.8,474.5 483.7,474.5 485.6,474.4 487.5,474.2 489.4,473.9 491.3,473.6 493.3,473.2 495.2,472.8 497.1,472.5 499,472.4 500.9,472.5 502.8,472.7 504.7,473.1 506.6,473.6 508.5,474.1 510.5,474.7 512.4,475.3 514.3,476 516.2,476.7 518.1,477.4 520,478.1 521.9,478.7 523.8,479.3 525.7,479.9 527.7,480.4 529.6,481 531.5,481.5 533.4,482 535.3,482.6 537.2,483.2 539.1,483.8 541,484.4 542.9,485 544.9,485.6 546.8,486.2 548.7,486.9 550.6,487.5 552.5,488 554.4,488.5 556.3,488.9 558.2,489.2 560.1,489.4 562.1,489.6 564,489.8 565.9,490 567.8,490.1 569.7,490.2 571.6,490.2 573.5,490.1 575.4,489.8 577.3,489.6 579.3,489.3 581.2,489.1 583.1,488.8 585,488.6 586.9,488.4 586.9,501.5 585,501.6 583.1,501.7 581.2,501.9 579.3,502 577.3,502.2 575.4,502.3 573.5,502.5 571.6,502.5 569.7,502.4 567.8,502.2 565.9,502 564,501.7 562.1,501.4 560.1,501.1 558.2,500.7 556.3,500.3 554.4,499.9 552.5,499.3 550.6,498.7 548.7,497.9 546.8,497.2 544.9,496.5 542.9,495.7 541,495 539.1,494.3 537.2,493.6 535.3,493 533.4,492.3 531.5,491.7 529.6,491 527.7,490.4 525.7,489.7 523.8,489 521.9,488.3 520,487.6 518.1,486.8 516.2,486 514.3,485.2 512.4,484.5 510.5,483.7 508.5,483 506.6,482.4 504.7,481.8 502.8,481.3 500.9,481 499,480.8 497.1,480.8 495.2,481 493.3,481.3 491.3,481.6 489.4,481.8 487.5,482.1 485.6,482.3 483.7,482.4 481.8,482.4 479.9,482.4 478,482.4 476.1,482.3 474.1,482.3" fill="#f8a9c0" fill-opacity="0.6"/>
<path d="M474.1 477.6l2 .5 1.9 .2 1.9 .9 1.9-.2 1.9-.3 1.9-.1 1.9-.5 1.9-.3 1.9 .4 2-.1 1.9 1.2 1.9-.6 1.9 .2 1.9 .6 1.9-.8 1.9-.6 1.9 .1 1.9-.9 2 .6 1.9 .6 1.9 2 1.9 1.6 1.9 2.5 1.9 .8 1.9 1.3 1.9-1.4 1.9 .5 2-1.1 1.9 0 1.9 1.8 1.9 2.2 1.9 2.7 1.9 1.9 1.9 .5 1.9-1 1.9-2.1 2-1.9 1.9-3.1 1.9-.8 1.9-.6 1.9 2.5 1.9 1 1.9 3.7 1.9 2.9 1.9 1.8 2 1 1.9 .8 1.9-.8 1.9-1.5 1.9 1.2 1.9-1.5 1.9-2.4 1.9-.4 1.9-2 2-.7 1.9 .4 1.9 2.8 1.9 1.1 1.9 1.1" stroke="#1f77b4" stroke-width="0.5" fill="none" stroke-opacity="0.36" stroke-linejoin="round"/>
<path d="M474.1 477.9l2 .5 1.9-.1 1.9 .1 1.9-.3 1.9-1 1.9-.5 1.9-.7 1.9-.5 1.9-1.1 2-.1 1.9 0 1.9 .7 1.9 1.1 1.9-.6 1.9 .2 1.9 .7 1.9 .5 1.9 1.1 2 1 1.9 1.9 1.9 2 1.9 1.2 1.9 0 1.9-.6 1.9-1.2 1.9 0 1.9-.2 2 .4 1.9 1.9 1.9 1.1 1.9 2.4 1.9 .5 1.9 .5 1.9 .3 1.9-.6 1.9-1.4 2 1.2 1.9 .4 1.9 2.8 1.9 3.3 1.9 1.2 1.9 .3 1.9 0 1.9-1.1 1.9-1.6 2-3.1 1.9 .7 1.9 .3 1.9-2.6 1.9-.8 1.9-1.2 1.9-2.3 1.9-.6 1.9-.5 2-.3 1.9 1.8 1.9 2.7 1.9 2.1 1.9 2.5" stroke="#2ca02c" stroke-width="0.5" fill="none" stroke-opacity="0.36" stroke-linejoin="round"/>
<path d="M474.1 474.7l2 1.3 1.9 1 1.9 1.1 1.9 .9 1.9 1.4 1.9 .7 1.9-.2 1.9-.4 1.9-.1 2-1 1.9-1.7 1.9-2.3 1.9-1.3 1.9-1.2 1.9 .5 1.9 .4 1.9 1.6 1.9 2.9 2 2.8 1.9 1.6 1.9 2.7 1.9 2.9 1.9 .1 1.9-.7 1.9-.8 1.9-2 1.9-1.1 2-.1 1.9 .6 1.9 2.4 1.9 1.7 1.9 3.5 1.9 1.8 1.9 1 1.9 2.8 1.9 1.9 2 1 1.9 3 1.9 .7 1.9-.2 1.9 .3 1.9 .3 1.9-2.3 1.9-2.3 1.9-1 2-2.3 1.9-3 1.9-.3 1.9-1.3 1.9-2.7 1.9-.6 1.9-2.5 1.9-1.7 1.9 .6 2 1.4 1.9 .3 1.9 1.3 1.9 1.2 1.9 .5" stroke="#ff7f0e" stroke-width="0.5" fill="none" stroke-opacity="0.36" stroke-linejoin="round"/>
<path d="M474.1 481.9l2 0 1.9 0 1.9-.3 1.9 .1 1.9 .1 1.9-.1 1.9-.1 1.9-.6 1.9 .3 2-.9 1.9-1.3 1.9-1.1 1.9-1.7 1.9-.1 1.9 .4 1.9-.2 1.9-.1 1.9 1.2 2 .4 1.9 .3 1.9 .2 1.9 .4 1.9 .2 1.9 .4 1.9 .4 1.9 1.3 1.9 .3 2 1.3 1.9-.6 1.9 .2 1.9-1.3 1.9 1.9 1.9 0 1.9 1.2 1.9 2.7 1.9 3.6 2 3.5 1.9 2.8 1.9 2.3 1.9 .7 1.9-.4 1.9-1.7 1.9-3 1.9-3.1 1.9-3.5 2-1.8 1.9-2.2 1.9 1.2 1.9 1.6 1.9 1.4 1.9 2.2 1.9 1.9 1.9 1.7 1.9 1.2 2 1.3 1.9 .8 1.9 .8 1.9 1.3 1.9 .8" stroke="#2ca02c" stroke-width="0.5" fill="none" stroke-opacity="0.36" stroke-linejoin="round"/>
<path d="M474.1 475.7l2 .4 1.9-.1 1.9 .3 1.9 1.3 1.9 .8 1.9 .7 1.9 .7 1.9-.1 1.9 .9 2 .3 1.9-.4 1.9-.1 1.9 .5 1.9-.4 1.9-1.1 1.9 0 1.9 .6 1.9 .5 2-.2 1.9 1.2 1.9 2.3 1.9 2.2 1.9 1.7 1.9 .3 1.9 1.3 1.9 .3 1.9-.3 2-1.6 1.9 .1 1.9 1.6 1.9 .3 1.9-1.2 1.9 .8 1.9 1.1 1.9-.7 1.9-.6 2 .7 1.9 .3 1.9 1.2 1.9 .1 1.9 1.1 1.9 3.3 1.9 3.2 1.9 2.5 1.9 1.3 2 2.8 1.9 2.7 1.9 0 1.9-.9 1.9-1.5 1.9-3 1.9-1.4 1.9 .5 1.9 1.7 2 3.4 1.9 3.6 1.9 .9 1.9 2.3 1.9 1.3" stroke="#e377c2" stroke-width="0.5" fill="none" stroke-opacity="0.36" stroke-linejoin="round"/>
<path d="M474.1 470.6l2 1.5 1.9 2.6 1.9 2.6 1.9 2.4 1.9 1.9 1.9 1.1 1.9 .8 1.9 1 1.9 .2 2 .1 1.9-1.6 1.9-1.1 1.9-2.1 1.9-3.1 1.9-1.5 1.9-.2 1.9-1.5 1.9 1.4 2 1.8 1.9 2 1.9 3.3 1.9 3.2 1.9 .2 1.9 3.1 1.9 .9 1.9 .9 1.9 2.2 2 1.6 1.9 1.2 1.9 .2 1.9-2.1 1.9-1.1 1.9-1.9 1.9-1.9 1.9-3.2 1.9-.4 2-1.1 1.9 .6 1.9 .4 1.9 3 1.9 1 1.9 .1 1.9-.3 1.9-2.3 1.9 .8 2 .3 1.9-.5 1.9 1 1.9-.1 1.9 .2 1.9-.6 1.9-1.5 1.9-2.6 1.9-2 2-3.4 1.9-1.3 1.9-1.1 1.9-.4 1.9 .4" stroke="#2ca02c" stroke-width="0.5" fill="none" stroke-opacity="0.36" stroke-linejoin="round"/>
<path d="M474.1 483.7l2 .9 1.9 .6 1.9 .8 1.9 .3 1.9-.6 1.9-.5 1.9-1 1.9-1.7 1.9-1 2-.9 1.9-2.3 1.9-.6 1.9-.3 1.9-1.8 1.9-.5 1.9-.2 1.9 .3 1.9-.1 2 0 1.9 .6 1.9 .6 1.9-.1 1.9 1 1.9-.1 1.9-.5 1.9 1.6 1.9 .9 2 1.1 1.9 2.5 1.9 1.6 1.9 2.5 1.9 1.6 1.9 .9 1.9 2.4 1.9 1.6 1.9 1.6 2 1.3 1.9 0 1.9-.2 1.9-.2 1.9-2.3 1.9-2.8 1.9-1.1 1.9-.6 1.9 0 2 .6 1.9 1.5 1.9 1.1 1.9-.8 1.9-1.3 1.9-4.6 1.9-.6 1.9-.5 1.9 0 2 1.6 1.9 3.6 1.9 3.1 1.9 3.1 1.9 2.5" stroke="#bcbd22" stroke-width="0.5" fill="none" stroke-opacity="0.36" stroke-linejoin="round"/>
<path d="M474.1 477.9l2 .9 1.9 1.4 1.9 .9 1.9 .8 1.9 .4 1.9-.2 1.9-.7 1.9-.5 1.9-.6 2-.5 1.9-.1 1.9-.8 1.9-.1 1.9 .4 1.9 .2 1.9-.1 1.9 .9 1.9 .6 2 2.2 1.9 3.2 1.9 2.3 1.9 1.8 1.9 2.2 1.9 2.1 1.9-.2 1.9-.2 1.9-.3 2-1.9 1.9-2 1.9-1.9 1.9-.8 1.9-2 1.9 1.2 1.9-1.5 1.9-.8 1.9-1.1 2 2.2 1.9 .6 1.9 2.4 1.9 3.3 1.9 3.3 1.9 2.6 1.9 3 1.9 1.1 1.9 .3 2-.5 1.9-.5 1.9-4.5 1.9-3.9 1.9-4.4 1.9-3.3 1.9-3.6 1.9-1.3 1.9-.4 2 2.1 1.9 2.4 1.9 5.5 1.9 4.3 1.9 3.9" stroke="#2ca02c" stroke-width="0.5" fill="none" stroke-opacity="0.36" stroke-linejoin="round"/>
<path d="M474.1 475.5l2 0 1.9 1.3 1.9 .7 1.9 .3 1.9-.1 1.9 .4 1.9 .3 1.9 .9 1.9 .4 2 .6 1.9 .4 1.9 .7 1.9 .2 1.9 .3 1.9-.9 1.9 .3 1.9-.4 1.9-.5 2-.4 1.9 1.4 1.9 1.1 1.9 1.4 1.9 .8 1.9 1.4 1.9-.7 1.9-1.1 1.9-2 2-2.7 1.9 .5 1.9 1 1.9 .3 1.9-.3 1.9 1.4 1.9 1.8 1.9 2.1 1.9 2.4 2 2.8 1.9 2.2 1.9 1.5 1.9 1.8 1.9 2.1 1.9 .6 1.9 1 1.9-2 1.9-1.5 2-.6 1.9 .7 1.9 1.4 1.9 2 1.9-.1 1.9 .1 1.9-.2 1.9-1.4 1.9-1 2 .8 1.9-.2 1.9 .4 1.9 2 1.9 1.2" stroke="#7f7f7f" stroke-width="0.5" fill="none" stroke-opacity="0.36" stroke-linejoin="round"/>
<path d="M474.1 480.2l2-.1 1.9-.1 1.9 .4 1.9 .1 1.9-.6 1.9-.5 1.9-.2 1.9-.4 1.9-.1 2-.2 1.9 .1 1.9 .2 1.9 0 1.9 .5 1.9 1 1.9 .1 1.9 1.2 1.9-.3 2 1 1.9 2 1.9 1.7 1.9-.2 1.9 1.1 1.9-.2 1.9-.1 1.9-1 1.9-1.2 2-.3 1.9 1.1 1.9-2.2 1.9 1.2 1.9 .2 1.9 1.2 1.9 .8 1.9 .9 1.9-.2 2 1.7 1.9 .1 1.9-1 1.9 1.3 1.9 2.9 1.9 1.3 1.9 3.2 1.9 2 1.9 6.5 2 1.6 1.9 1 1.9-.1 1.9-1.7 1.9-3.4 1.9-5 1.9-4 1.9-3.3 1.9-.2 2-2.7 1.9-1 1.9 2.8 1.9 1.1 1.9 2" stroke="#1f77b4" stroke-width="0.5" fill="none" stroke-opacity="0.36" stroke-linejoin="round"/>
<path d="M474.1 480l2-.3 1.9-.6 1.9 0 1.9 .1 1.9 0 1.9-.2 1.9 .1 1.9-.9 1.9-.8 2-1.5 1.9-1.2 1.9-.6 1.9 .3 1.9-.6 1.9 .4 1.9-.3 1.9 .6 1.9-.5 2-.7 1.9 .3 1.9 1.2 1.9 1.1 1.9 2.3 1.9 2.6 1.9 1.9 1.9 3 1.9 2.6 2 1.2 1.9 .7 1.9 .9 1.9 .9 1.9 0 1.9 .3 1.9 0 1.9-.3 1.9 .3 2 .1 1.9 1.7 1.9-.2 1.9 1 1.9 1.5 1.9 .8 1.9 1 1.9 .6 1.9 .5 2 .1 1.9 .1 1.9 .1 1.9 1.5 1.9 .1 1.9-.6 1.9 .4 1.9-.8 1.9 .5 2 .6 1.9-.5 1.9-.3 1.9 .6 1.9 .2" stroke="#9467bd" stroke-width="0.5" fill="none" stroke-opacity="0.36" stroke-linejoin="round"/>
<path d="M474.1 472.1l2 1.1 1.9 .3 1.9 .9 1.9 .4 1.9 1.2 1.9 1.1 1.9 .7 1.9 .6 1.9-.2 2-.2 1.9-.6 1.9-.7 1.9-.5 1.9-.8 1.9 .8 1.9-.5 1.9 1.3 1.9 .8 2 1 1.9 1.1 1.9 1.6 1.9 1.8 1.9 1.2 1.9 0 1.9 .4 1.9-.5 1.9-.5 2 0 1.9 .9 1.9 0 1.9 1.6 1.9 2 1.9 1.7 1.9 2.5 1.9 .7 1.9 .8 2 .7 1.9 .6 1.9 1.4 1.9-.3 1.9 .2 1.9 .6 1.9-.9 1.9-1.2 1.9-.8 2-1 1.9-.1 1.9 1.5 1.9 1.1 1.9 2.9 1.9 2.6 1.9 2.1 1.9 1.5 1.9 .8 2 2.3 1.9 3.1 1.9 1.7 1.9 2.7 1.9 2.6" stroke="#9467bd" stroke-width="0.5" fill="none" stroke-opacity="0.36" stroke-linejoin="round"/>
<path d="M474.1 481.7l2-1.1 1.9-1 1.9-1.5 1.9-1.9 1.9-1.4 1.9-1.4 1.9-.4 1.9-.5 1.9-.2 2 .2 1.9 .6 1.9-.3 1.9-1 1.9-2.1 1.9-1.1 1.9 .4 1.9 .6 1.9 2 2 2.2 1.9 2.6 1.9 2.7 1.9 1.5 1.9 1.1 1.9 .5 1.9 0 1.9 .2 1.9-.9 2 .1 1.9 1.9 1.9 .5 1.9-1.1 1.9-1 1.9-.4 1.9 .6 1.9 2.8 1.9 2.3 2 2.3 1.9 1.9 1.9 2.1 1.9 1 1.9-1 1.9-.4 1.9-2 1.9-1.2 1.9-1.8 2-.8 1.9 .7 1.9 .2 1.9 .4 1.9-.7 1.9-.7 1.9-.2 1.9-.6 1.9-1.5 2-.8 1.9 .3 1.9-1.1 1.9-.4 1.9-1.7" stroke="#8c564b" stroke-width="0.5" fill="none" stroke-opacity="0.36" stroke-linejoin="round"/>
<path d="M474.1 476.4l2-.1 1.9 0 1.9 .5 1.9 .3 1.9-.3 1.9 .9 1.9 1 1.9 1.3 1.9 .7 2 1.1 1.9-.5 1.9-.1 1.9-.9 1.9-.2 1.9-.4 1.9 0 1.9-.4 1.9 .1 2 1.8 1.9 1.9 1.9 1 1.9 1.1 1.9-.3 1.9-.4 1.9 0 1.9 .1 1.9 .1 2-.6 1.9 0 1.9 .1 1.9 .5 1.9 0 1.9 .4 1.9 0 1.9 2.6 1.9 1.3 2 3.1 1.9 2.6 1.9 3.1 1.9 2.4 1.9 .2 1.9-.7 1.9 .3 1.9-1.9 1.9 .6 2 2.3 1.9 .6 1.9 2.2 1.9 2.2 1.9-.9 1.9 2.4 1.9-.5 1.9-3.4 1.9-2.4 2-2.9 1.9-.4 1.9 2 1.9 4.8 1.9 3.3" stroke="#2ca02c" stroke-width="0.5" fill="none" stroke-opacity="0.36" stroke-linejoin="round"/>
<path d="M474.1 475.1l2 .4 1.9 .6 1.9 1.2 1.9 .7 1.9 .9 1.9 .5 1.9 .5 1.9 .2 1.9 .1 2-.9 1.9-.3 1.9-1.9 1.9-1.4 1.9-2.2 1.9-2.3 1.9-.9 1.9 0 1.9-.5 2 1.6 1.9 2.9 1.9 3.1 1.9 1.9 1.9 1.5 1.9 .9 1.9 1.4 1.9-1.1 1.9 .1 2 .3 1.9 1.8 1.9 2.4 1.9 .2 1.9 .8 1.9 2.7 1.9 1.2 1.9 .2 1.9 .7 2 .1 1.9 1.6 1.9-.3 1.9 .7 1.9 .7 1.9 1.6 1.9-.3 1.9-.1 1.9-2.3 2 0 1.9 1.6 1.9-3.3 1.9-.8 1.9 1.2 1.9 .6 1.9 2.4 1.9 1.3 1.9 1 2-.2 1.9 .9 1.9-1.2 1.9-.7 1.9-.6" stroke="#e377c2" stroke-width="0.5" fill="none" stroke-opacity="0.36" stroke-linejoin="round"/>
<path d="M474.1 480.1l2-.7 1.9-.4 1.9-.9 1.9-.3 1.9-.1 1.9-.7 1.9-.7 1.9-1 1.9-.7 2-.9 1.9-.4 1.9-.7 1.9 1.8 1.9 1 1.9 1.4 1.9 1.5 1.9 1.4 1.9 1.1 2 1.1 1.9 1 1.9 1 1.9 1.3 1.9 1.4 1.9 1.3 1.9 .3 1.9-.4 1.9-.1 2-1 1.9 .6 1.9 .2 1.9 1.2 1.9 1.2 1.9 3.3 1.9 2.3 1.9 0 1.9 2.1 2 1.1 1.9-1.1 1.9-.6 1.9-.6 1.9 .2 1.9-.3 1.9-2.5 1.9-2.4 1.9 .6 2-.5 1.9 .6 1.9 1.8 1.9 2 1.9 5.1 1.9 2 1.9 .3 1.9 .8 1.9-3 2-3.3 1.9-6.6 1.9-7.8 1.9-6.2 1.9-5" stroke="#ff7f0e" stroke-width="0.5" fill="none" stroke-opacity="0.36" stroke-linejoin="round"/>
<path d="M474.1 478.3l2-.6 1.9-.6 1.9-.6 1.9-.1 1.9-1.1 1.9 1.1 1.9 1.1 1.9 1.2 1.9 .8 2 .1 1.9 .7 1.9 1.1 1.9 .1 1.9 .7 1.9 .4 1.9 .3 1.9-.1 1.9 .8 2 1.5 1.9 3.1 1.9 .8 1.9-.1 1.9-.4 1.9-1.3 1.9-.4 1.9 0 1.9 .8 2 1.6 1.9 .1 1.9 3.1 1.9 4.2 1.9 1.3 1.9 .6 1.9-.8 1.9-2.8 1.9-2.4 2-.3 1.9-1.9 1.9 1.6 1.9 1.4 1.9 0 1.9 .9 1.9 1.5 1.9 1.3 1.9 0 2-1.6 1.9 .4 1.9-.4 1.9 1.4 1.9 .4 1.9 .3 1.9-2.2 1.9-.9 1.9-2.6 2-1.1 1.9 .2 1.9-.1 1.9 .9 1.9 .4" stroke="#d62728" stroke-width="0.5" fill="none" stroke-opacity="0.36" stroke-linejoin="round"/>
<path d="M474.1 476l2-.1 1.9-1.7 1.9-.2 1.9-.5 1.9-1.1 1.9-.5 1.9-.1 1.9-.6 1.9 1 2 .9 1.9 .2 1.9 .9 1.9 1.3 1.9 .8 1.9 1.7 1.9 .8 1.9 1.5 1.9 .2 2 .5 1.9 .3 1.9 .4 1.9 .5 1.9-.9 1.9 .4 1.9-.8 1.9 1.3 1.9 .7 2 1.8 1.9 2.1 1.9 2.7 1.9 1.8 1.9 2.4 1.9 3.2 1.9 2 1.9 .3 1.9-.3 2-.3 1.9 .4 1.9-.4 1.9-1.5 1.9-1.2 1.9-.6 1.9-2.3 1.9-2.1 1.9-1.6 2-1.8 1.9-2.2 1.9 .3 1.9-1.5 1.9 .2 1.9-.3 1.9-.4 1.9-2.4 1.9-3.2 2-2.6 1.9-4.7 1.9-5.1 1.9-3.6 1.9-3.7" stroke="#9467bd" stroke-width="0.5" fill="none" stroke-opacity="0.36" stroke-linejoin="round"/>
<path d="M474.1 472.8l2 .3 1.9 1.6 1.9 2.5 1.9 1.9 1.9 2.3 1.9 .1 1.9-.1 1.9-.4 1.9-1.1 2-1.8 1.9-1.4 1.9-1 1.9-1.2 1.9-.4 1.9 1.1 1.9 1.2 1.9 .1 1.9-.5 2-.1 1.9-.4 1.9 1.3 1.9-.3 1.9-.6 1.9-.4 1.9 2 1.9 .5 1.9 1.1 2 2.9 1.9 3.2 1.9 1.8 1.9 2.1 1.9 1 1.9 .7 1.9-.3 1.9-2.8 1.9-2.1 2 1 1.9 .5 1.9 .5 1.9 1.4 1.9 2 1.9 1.8 1.9 2.4 1.9 1 1.9-1.3 2 .8 1.9 0 1.9-.9 1.9-.3 1.9 1.2 1.9 1.4 1.9 .6 1.9 .1 1.9 .4 2 .3 1.9 .6 1.9-.7 1.9-.3 1.9-.1" stroke="#bcbd22" stroke-width="0.5" fill="none" stroke-opacity="0.36" stroke-linejoin="round"/>
<path d="M474.1 479.7l2-.2 1.9-.1 1.9-.1 1.9 0 1.9-.5 1.9 .2 1.9-.2 1.9-1.5 1.9-1.6 2-1.2 1.9-.4 1.9-.9 1.9 .4 1.9 0 1.9 .9 1.9 1.1 1.9 1.2 1.9 .7 2-.2 1.9 .9 1.9-2.2 1.9-3.2 1.9-.3 1.9-1 1.9 0 1.9 1.4 1.9 2.8 2 4 1.9 3.5 1.9 2 1.9 1.3 1.9 1 1.9-1.7 1.9-1.2 1.9-1.3 1.9 .2 2 2.8 1.9 1.2 1.9 .2 1.9 2.2 1.9 1.4 1.9 .5 1.9-.5 1.9 0 1.9-.6 2-1.6 1.9-1.2 1.9-.9 1.9-.9 1.9-.5 1.9-.2 1.9 .3 1.9 2.9 1.9 3.8 2 3.9 1.9 4.2 1.9 2.2 1.9 2.8 1.9 2.4" stroke="#17becf" stroke-width="0.5" fill="none" stroke-opacity="0.36" stroke-linejoin="round"/>
<path d="M474.1 481.2l2-.5 1.9 .2 1.9-.1 1.9-1.1 1.9-.9 1.9-1 1.9-1 1.9-.2 1.9 0 2 .8 1.9 .5 1.9-.7 1.9-.1 1.9-.1 1.9-1.3 1.9-.9 1.9-.2 1.9-.3 2 1 1.9 1 1.9 2.7 1.9 2.3 1.9 2 1.9 2.1 1.9 1.9 1.9 1 1.9-.1 2 .4 1.9-.3 1.9 1.4 1.9 2.6 1.9 .2 1.9 .7 1.9 .3 1.9-1.4 1.9-2.5 2-.1 1.9 1.7 1.9-.9 1.9 1.3 1.9 3.2 1.9 3.7 1.9-.8 1.9 .1 1.9-2.6 2-2.9 1.9-2.9 1.9-3 1.9-1.3 1.9 .1 1.9 .6 1.9 .5 1.9 0 1.9 1.6 2 1.5 1.9 .7 1.9-1.2 1.9 1 1.9-1" stroke="#ff7f0e" stroke-width="0.5" fill="none" stroke-opacity="0.36" stroke-linejoin="round"/>
<path d="M474.1 472l2 .1 1.9 .6 1.9-.5 1.9 .7 1.9 .2 1.9 .4 1.9 .3 1.9 .7 1.9-.1 2-.3 1.9 .2 1.9 .2 1.9-.4 1.9-.3 1.9-.1 1.9-.6 1.9-.4 1.9 2 2 .9 1.9 2 1.9 2.2 1.9 2.1 1.9 1 1.9 1 1.9 1.3 1.9-.2 1.9 .1 2 .9 1.9 1.1 1.9 .4 1.9 1.8 1.9 1.1 1.9-.1 1.9 .3 1.9 .2 1.9 .8 2 1.2 1.9 1.8 1.9 .2 1.9-.9 1.9 2.5 1.9 1.8 1.9-.3 1.9 .4 1.9 .8 2-.8 1.9 .2 1.9-1 1.9-1.6 1.9 .1 1.9-2.3 1.9-1.6 1.9-.7 1.9-.3 2 1.3 1.9-.3 1.9-1.4 1.9 .7 1.9-.2" stroke="#8c564b" stroke-width="0.5" fill="none" stroke-opacity="0.36" stroke-linejoin="round"/>
<path d="M474.1 483.1l2-.5 1.9-.9 1.9-1.1 1.9-.8 1.9-.3 1.9 .2 1.9 1.1 1.9 .3 1.9 .8 2 .3 1.9 0 1.9 .1 1.9 .8 1.9-.8 1.9-.2 1.9-.3 1.9-.8 1.9-.1 2-.3 1.9-.2 1.9 0 1.9 0 1.9 .4 1.9 .1 1.9 1.1 1.9 .4 1.9 1.2 2 .8 1.9 2.7 1.9 3 1.9 3.7 1.9 2.8 1.9 2 1.9 .5 1.9-1.5 1.9-4.1 2-2.8 1.9-1.4 1.9 1.1 1.9 1.4 1.9 2.8 1.9 3 1.9 3.7 1.9 1.3 1.9-.2 2-.4 1.9-3.9 1.9-3.6 1.9-2.6 1.9-4.5 1.9-1 1.9-2.6 1.9-2.3 1.9-1.1 2-1.5 1.9-.8 1.9 .6 1.9-.2 1.9-.5" stroke="#2ca02c" stroke-width="0.5" fill="none" stroke-opacity="0.36" stroke-linejoin="round"/>
<path d="M474.1 470.1l2 1.6 1.9 1.2 1.9 1.8 1.9 1.1 1.9 .6 1.9 .2 1.9-.4 1.9-.6 1.9-.3 2-.7 1.9-.3 1.9 .6 1.9 .5 1.9 .2 1.9 2.2 1.9 .6 1.9 2.5 1.9 .5 2 .9 1.9 1.2 1.9 .1 1.9-.8 1.9 .3 1.9-.7 1.9-.2 1.9 .7 1.9-.4 2 .8 1.9 1.4 1.9 1.2 1.9 1.5 1.9-.2 1.9-.8 1.9 .4 1.9-1.1 1.9 .2 2 1.2 1.9 .5 1.9 .8 1.9-.5 1.9-.5 1.9 .9 1.9 .8 1.9 .5 1.9 0 2 2.3 1.9 3.2 1.9 2.9 1.9 2.7 1.9 2.8 1.9-.2 1.9-.3 1.9-1.9 1.9-1.9 2-.3 1.9 0 1.9-.2 1.9 1.8 1.9 1.5" stroke="#8c564b" stroke-width="0.5" fill="none" stroke-opacity="0.36" stroke-linejoin="round"/>
<path d="M474.1 474.1l2 0 1.9-.4 1.9-.5 1.9-.1 1.9-.4 1.9-.6 1.9-.2 1.9 0 1.9 .3 2 .3 1.9 .9 1.9 1.1 1.9 2 1.9 2.2 1.9 2.1 1.9 1.3 1.9 1.1 1.9 .8 2-.6 1.9-.8 1.9 .2 1.9-1.3 1.9-.9 1.9 .1 1.9-.8 1.9 .4 1.9 1 2 .9 1.9 2.5 1.9 1.9 1.9 2.6 1.9 2 1.9 1.9 1.9 .2 1.9 .3 1.9-1.9 2-1.7 1.9-1.2 1.9-.3 1.9 .5 1.9 1.2 1.9 2.1 1.9 3.8 1.9-.6 1.9 .5 2-.2 1.9 .6 1.9 .4 1.9 .7 1.9 .6 1.9 .3 1.9 2.9 1.9 2 1.9 1.1 2 2.2 1.9 .8 1.9-1.7 1.9-.2 1.9 1.8" stroke="#9467bd" stroke-width="0.5" fill="none" stroke-opacity="0.36" stroke-linejoin="round"/>
<path d="M474.1 481.5l2-.1 1.9-.2 1.9-.6 1.9-1.2 1.9-.8 1.9-1.3 1.9-1 1.9-.8 1.9 0 2-.4 1.9-.4 1.9 1.2 1.9 1.2 1.9 .4 1.9 1.2 1.9 1.6 1.9 .2 1.9 .8 2 1.8 1.9-.3 1.9 .9 1.9 .1 1.9-1.9 1.9-1.9 1.9-2.8 1.9-.7 1.9 .1 2 .1 1.9-.1 1.9 1.8 1.9 1.5 1.9 1.7 1.9 .9 1.9 1.5 1.9-.7 1.9-1.3 2-.4 1.9 2.8 1.9 1.8 1.9 1.6 1.9 1.2 1.9 1.5 1.9 1.2 1.9 2.6 1.9 2.9 2 1 1.9 1.9 1.9 3 1.9 .5 1.9 3 1.9 2.1 1.9 1.5 1.9 .2 1.9-.2 2-1.1 1.9-2.6 1.9-2.8 1.9-2.9 1.9-3.2" stroke="#ff7f0e" stroke-width="0.5" fill="none" stroke-opacity="0.36" stroke-linejoin="round"/>
<path d="M474.1 482.2l2-1.3 1.9-1.7 1.9-.9 1.9-.6 1.9-.4 1.9 .1 1.9 .1 1.9 .1 1.9 .5 2-.2 1.9 .3 1.9-.2 1.9 1 1.9 .8 1.9 .6 1.9-.3 1.9 .5 1.9 .1 2-.9 1.9-.5 1.9-.1 1.9-.7 1.9-.9 1.9 .2 1.9 1 1.9 1.4 1.9 1.8 2 .8 1.9 1.7 1.9 1.2 1.9 4.1 1.9 1.4 1.9 .1 1.9-1.3 1.9-1.8 1.9-.4 2 1.6 1.9 .9 1.9 2.7 1.9 2.1 1.9 1 1.9 .5 1.9 .2 1.9-.2 1.9 .2 2-1.7 1.9-1.1 1.9-1.2 1.9-.1 1.9-1.8 1.9-1 1.9-2 1.9 0 1.9 .9 2 4.3 1.9 5.7 1.9 8.1 1.9 8.5 1.9 5.5" stroke="#2ca02c" stroke-width="0.5" fill="none" stroke-opacity="0.36" stroke-linejoin="round"/>
<path d="M474.1 477.2l2 .3 1.9 .7 1.9 0 1.9-.4 1.9 .7 1.9-.7 1.9-1 1.9-.7 1.9-.7 2 0 1.9 .2 1.9 .3 1.9 .8 1.9 1.1 1.9 .2 1.9 .2 1.9-.1 1.9-.2 2 .5 1.9-1 1.9 1.1 1.9 1.5 1.9 2.3 1.9 1.2 1.9 .4 1.9 .8 1.9-.6 2-.1 1.9-1.1 1.9 .5 1.9-.7 1.9 2.2 1.9 1.5 1.9 2 1.9 0 1.9 1.1 2-.3 1.9 1 1.9 .4 1.9-.6 1.9 .3 1.9 .8 1.9-1.2 1.9-1.5 1.9-.2 2 2.2 1.9 1.7 1.9 1.3 1.9 2.1 1.9 4.4 1.9 2.4 1.9 1 1.9 .3 1.9-.4 2 .1 1.9-1.2 1.9-.8 1.9 .2 1.9 1.4" stroke="#d62728" stroke-width="0.5" fill="none" stroke-opacity="0.36" stroke-linejoin="round"/>
<path d="M474.1 483.2l2-.3 1.9-1.1 1.9-1 1.9-1.1 1.9-1.9 1.9-1 1.9-1.2 1.9-1 1.9-.1 2 .7 1.9 .6 1.9 .6 1.9 .7 1.9 1.1 1.9 .5 1.9 1.1 1.9 .6 1.9 .8 2 2.3 1.9 2 1.9 1.4 1.9 2.2 1.9 2.1 1.9 1 1.9-.1 1.9-1 1.9-.2 2-.3 1.9-.7 1.9-.7 1.9-.6 1.9 2.2 1.9 .6 1.9 0 1.9 1.9 1.9 3 2 .2 1.9 1.2 1.9 .6 1.9 .7 1.9 1.2 1.9 .1 1.9-.5 1.9-1.2 1.9-.8 2-1.9 1.9-2.2 1.9 .6 1.9-.6 1.9-.6 1.9 .6 1.9 .5 1.9 1.6 1.9 1.4 2 .3 1.9-1.4 1.9-1 1.9-2.5 1.9-1" stroke="#e377c2" stroke-width="0.5" fill="none" stroke-opacity="0.36" stroke-linejoin="round"/>
<path d="M474.1 480.2l2-.5 1.9-.7 1.9-1 1.9-.4 1.9-.3 1.9-.7 1.9-.1 1.9 .5 1.9 1.1 2 .7 1.9-.4 1.9-.1 1.9 1.6 1.9-.3 1.9 .5 1.9-.4 1.9-.2 1.9-.6 2-.7 1.9-1.3 1.9-.2 1.9-.3 1.9-.3 1.9-.9 1.9 .9 1.9 1.4 1.9 1.5 2 .9 1.9 3.1 1.9 1 1.9 3.9 1.9 3 1.9 2.5 1.9 3 1.9 3.1 1.9 2.1 2 .4 1.9 0 1.9 0 1.9-1.2 1.9-.6 1.9 .2 1.9-.6 1.9-3.7 1.9-1.9 2-2 1.9-1.5 1.9-1.2 1.9-.3 1.9-.9 1.9 .9 1.9 2.9 1.9 3.2 1.9 3 2 3.4 1.9 2.6 1.9 1.2 1.9 1.6 1.9 3" stroke="#2ca02c" stroke-width="0.5" fill="none" stroke-opacity="0.36" stroke-linejoin="round"/>
<polygon points="474.1,477.4 476.1,477.4 478,477.5 479.9,477.5 481.8,477.5 483.7,477.5 485.6,477.4 487.5,477.2 489.4,476.9 491.3,476.6 493.3,476.3 495.2,476 497.1,475.7 499,475.7 500.9,475.8 502.8,476.1 504.7,476.5 506.6,477.1 508.5,477.6 510.5,478.3 512.4,479 514.3,479.7 516.2,480.4 518.1,481.2 520,481.9 521.9,482.6 523.8,483.2 525.7,483.9 527.7,484.5 529.6,485 531.5,485.6 533.4,486.2 535.3,486.8 537.2,487.5 539.1,488.1 541,488.7 542.9,489.4 544.9,490.1 546.8,490.8 548.7,491.5 550.6,492.1 552.5,492.7 554.4,493.2 556.3,493.7 558.2,494 560.1,494.3 562.1,494.5 564,494.8 565.9,495 567.8,495.3 569.7,495.4 571.6,495.4 573.5,495.3 575.4,495.2 577.3,494.9 579.3,494.7 581.2,494.5 583.1,494.3 585,494.1 586.9,494 586.9,495.9 585,496 583.1,496.2 581.2,496.4 579.3,496.6 577.3,496.8 575.4,497 573.5,497.2 571.6,497.3 569.7,497.2 567.8,497.1 565.9,496.9 564,496.7 562.1,496.4 560.1,496.1 558.2,495.9 556.3,495.5 554.4,495.1 552.5,494.6 550.6,494 548.7,493.3 546.8,492.6 544.9,492 542.9,491.3 541,490.6 539.1,490 537.2,489.3 535.3,488.7 533.4,488.1 531.5,487.5 529.6,486.9 527.7,486.3 525.7,485.7 523.8,485.1 521.9,484.4 520,483.8 518.1,483 516.2,482.3 514.3,481.6 512.4,480.8 510.5,480.1 508.5,479.5 506.6,478.9 504.7,478.4 502.8,478 500.9,477.7 499,477.5 497.1,477.6 495.2,477.8 493.3,478.2 491.3,478.5 489.4,478.8 487.5,479.1 485.6,479.2 483.7,479.4 481.8,479.4 479.9,479.4 478,479.3 476.1,479.3 474.1,479.2" fill="#f0326a" fill-opacity="0.95"/>
<path d="M489.7 448.8V528.7" stroke="#f25c86" stroke-width="1.100" stroke-dasharray="4.400 1.800" fill="none"/>
</g>
<rect x="468.9" y="448.3" width="123.3" height="80.4" fill="none" stroke="#222" stroke-width=".8"/>
<path d="M489.7 528.7v2.200M522.1 528.7v2.200M554.5 528.7v2.200M586.9 528.7v2.200M473.5 528.7v1.300M505.9 528.7v1.300M538.3 528.7v1.300M570.7 528.7v1.300M468.9 521.1h-2.200M468.9 506.7h-2.200M468.9 492.3h-2.200M468.9 477.9h-2.200M468.9 463.5h-2.200M468.9 449.1h-2.200" stroke="#222" stroke-width=".6" fill="none"/>
<g font-size="7"><text x="489.7" y="537" text-anchor="middle">0.0</text><text x="522.1" y="537" text-anchor="middle">1.0</text><text x="554.5" y="537" text-anchor="middle">2.0</text><text x="586.9" y="537" text-anchor="middle">3.0</text><text x="465.7" y="523.5" text-anchor="end">−0.4</text><text x="465.7" y="509.1" text-anchor="end">−0.2</text><text x="465.7" y="494.7" text-anchor="end">0.0</text><text x="465.7" y="480.3" text-anchor="end">0.2</text><text x="465.7" y="465.9" text-anchor="end">0.4</text><text x="465.7" y="451.5" text-anchor="end">0.6</text><text x="522.3" y="542.8" text-anchor="middle">Time (h)</text></g>
<rect x="543.1" y="450.2" width="47.8" height="22" rx="1" fill="#fff" fill-opacity=".8" stroke="#ccc" stroke-width=".5"/>
<g font-size="5.75"><path d="M545.6 453.2h7.5" stroke="#f2557f" stroke-width=".8" stroke-dasharray="2.800 1.200"/><text x="555.6" y="455.1">Drug addition</text><rect x="545.6" y="458.2" width="7.5" height="3.400" fill="#f8a9c0"/><text x="555.6" y="461.8">Mean±SD</text><rect x="545.6" y="464.9" width="7.5" height="3.400" fill="#f2457a"/><text x="555.6" y="468.5">Mean±SEM</text></g>
<clipPath id="c10"><rect x="379.4" y="555.2" width="173.3" height="111.8"/></clipPath>
<rect x="379.4" y="555.2" width="173.3" height="111.8" fill="#fff"/>
<g clip-path="url(#c10)">
<polygon points="386.7,577.4 388.4,577.4 390.2,577.4 392,577.5 393.8,577.5 395.6,577.4 397.3,577.3 399.1,577.3 400.9,577.3 402.7,577.4 404.5,577.3 406.2,577.3 408,577.5 409.8,577.6 411.6,577.4 413.3,577.5 415.1,577.3 416.9,577.4 418.7,577.5 420.5,577.5 422.2,577.4 424,577.5 425.8,577.6 427.6,577.6 429.4,577.5 431.1,577.5 432.9,577.4 434.7,577.4 436.5,577.3 438.3,577.1 440,577 441.8,577.1 443.6,576.9 445.4,576.8 447.1,577 448.9,577 450.7,577.1 452.5,577.1 454.3,577.3 456,577.3 457.8,577.3 459.6,577.2 461.4,577.4 463.2,577.4 464.9,577.4 466.7,577.3 468.5,577.4 470.3,577.6 472.1,577.7 473.8,577.7 475.6,577.7 477.4,577.8 479.2,577.7 481,577.6 482.7,577.5 484.5,577.5 486.3,577.4 488.1,577.4 489.8,577.4 491.6,577.5 493.4,577.6 495.2,577.6 497,577.6 498.7,577.6 500.5,577.7 502.3,577.5 504.1,577.5 505.9,577.4 507.6,577.5 509.4,577.4 511.2,577.5 513,577.4 514.8,577.4 516.5,577.4 518.3,577.5 520.1,577.4 521.9,577.5 523.7,577.4 525.4,577.5 527.2,577.4 529,577.4 530.8,577.5 532.5,577.6 534.3,577.6 536.1,577.5 537.9,577.4 539.7,577.5 541.4,577.5 543.2,577.5 545,577.5 545,581.9 543.2,581.9 541.4,581.9 539.7,581.9 537.9,582 536.1,581.9 534.3,581.8 532.5,581.8 530.8,581.9 529,582 527.2,582 525.4,581.9 523.7,582 521.9,581.9 520.1,582 518.3,581.9 516.5,582 514.8,582 513,582 511.2,581.9 509.4,582 507.6,581.9 505.9,582 504.1,581.9 502.3,581.9 500.5,581.7 498.7,581.8 497,581.8 495.2,581.8 493.4,581.8 491.6,581.9 489.8,582 488.1,582 486.3,582 484.5,581.9 482.7,581.9 481,581.8 479.2,581.7 477.4,581.6 475.6,581.7 473.8,581.7 472.1,581.7 470.3,581.8 468.5,582 466.7,582.1 464.9,582 463.2,582 461.4,582 459.6,582.2 457.8,582.1 456,582.1 454.3,582.1 452.5,582.3 450.7,582.3 448.9,582.4 447.1,582.4 445.4,582.6 443.6,582.5 441.8,582.3 440,582.4 438.3,582.3 436.5,582.1 434.7,582 432.9,582 431.1,581.9 429.4,581.9 427.6,581.8 425.8,581.8 424,581.9 422.2,582 420.5,581.9 418.7,581.9 416.9,582 415.1,582.1 413.3,581.9 411.6,582 409.8,581.8 408,581.9 406.2,582.1 404.5,582.1 402.7,582 400.9,582.1 399.1,582.1 397.3,582.1 395.6,582 393.8,581.9 392,581.9 390.2,582 388.4,582 386.7,582" fill="#7cc8ee" fill-opacity="0.7"/>
<path d="M386.7 579.7l1.7 0 1.8 0 1.8 0 1.8 0 1.8 0 1.7 0 1.8 0 1.8 0 1.8 0 1.8 0 1.7 0 1.8 0 1.8 0 1.8 0 1.7 0 1.8 0 1.8 0 1.8 0 1.8 0 1.7 0 1.8 0 1.8 0 1.8 0 1.8 0 1.7 0 1.8 0 1.8 0 1.8 0 1.8 0 1.7 0 1.8 0 1.8 0 1.8 0 1.7 0 1.8 0 1.8 0 1.8 0 1.8 0 1.7 0 1.8 0 1.8 0 1.8 0 1.8 0 1.7 0 1.8 0 1.8 0 1.8 0 1.8 0 1.7 0 1.8 0 1.8 0 1.8 0 1.8 0 1.7 0 1.8 0 1.8 0 1.8 0 1.7 0 1.8 0 1.8 0 1.8 0 1.8 0 1.7 0 1.8 0 1.8 0 1.8 0 1.8 0 1.7 0 1.8 0 1.8 0 1.8 0 1.8 0 1.7 0 1.8 0 1.8 0 1.8 0 1.8 0 1.7 0 1.8 0 1.8 0 1.8 0 1.7 0 1.8 0 1.8 0 1.8 0 1.8 0 1.7 0 1.8 0 1.8 0" stroke="#2497d8" stroke-width="1.3" fill="none" stroke-opacity="1" stroke-linejoin="round"/>
<polygon points="386.7,574.5 388.4,574.7 390.2,574.9 392,574.7 393.8,575 395.6,575.8 397.3,576.3 399.1,576.3 400.9,576.6 402.7,576.5 404.5,575.7 406.2,575 408,574.8 409.8,575 411.6,575.5 413.3,575.5 415.1,575.7 416.9,576.3 418.7,576.8 420.5,576.9 422.2,577 424,577.1 425.8,577.4 427.6,577.7 429.4,578.1 431.1,578.6 432.9,578.8 434.7,579.4 436.5,580.9 438.3,582.2 440,583.3 441.8,585.2 443.6,587.8 445.4,590.1 447.1,592.8 448.9,595.7 450.7,598.3 452.5,600.4 454.3,602.5 456,605 457.8,607.1 459.6,608.8 461.4,610.2 463.2,611.3 464.9,612.5 466.7,614.4 468.5,617 470.3,619.3 472.1,621.4 473.8,623.5 475.6,625.4 477.4,627.2 479.2,629.2 481,631.3 482.7,633.1 484.5,634.6 486.3,636 488.1,636.9 489.8,638 491.6,639.3 493.4,639.9 495.2,640.7 497,641.9 498.7,642.6 500.5,642.9 502.3,643.3 504.1,644.7 505.9,645.5 507.6,646.1 509.4,646.8 511.2,647.1 513,648.1 514.8,648.9 516.5,649.4 518.3,649.8 520.1,649.8 521.9,649.5 523.7,649 525.4,648.9 527.2,648.5 529,648 530.8,647.4 532.5,646.7 534.3,646.1 536.1,644.9 537.9,644.3 539.7,643.5 541.4,642 543.2,641 545,640.2 545,649.6 543.2,650.4 541.4,651.4 539.7,652.8 537.9,653.5 536.1,654 534.3,655.2 532.5,655.8 530.8,656.4 529,656.9 527.2,657.4 525.4,657.7 523.7,657.8 521.9,658.2 520.1,658.5 518.3,658.4 516.5,657.9 514.8,657.4 513,656.5 511.2,655.5 509.4,655.1 507.6,654.4 505.9,653.7 504.1,652.8 502.3,651.4 500.5,651 498.7,650.6 497,649.8 495.2,648.6 493.4,647.8 491.6,647.1 489.8,645.8 488.1,644.6 486.3,643.6 484.5,642.2 482.7,640.6 481,638.8 479.2,636.6 477.4,634.5 475.6,632.7 473.8,630.8 472.1,628.5 470.3,626.4 468.5,624.1 466.7,621.4 464.9,619.4 463.2,618.2 461.4,617 459.6,615.6 457.8,613.8 456,611.7 454.3,609.2 452.5,607 450.7,604.9 448.9,602.2 447.1,599.2 445.4,596.5 443.6,594.1 441.8,591.4 440,589.5 438.3,588.4 436.5,587 434.7,585.5 432.9,584.8 431.1,584.5 429.4,584 427.6,583.5 425.8,583.1 424,582.8 422.2,582.6 420.5,582.5 418.7,582.3 416.9,581.8 415.1,581.1 413.3,580.9 411.6,580.8 409.8,580.3 408,580 406.2,580.2 404.5,580.9 402.7,581.7 400.9,581.9 399.1,581.6 397.3,581.5 395.6,581.1 393.8,580.2 392,579.9 390.2,580.1 388.4,579.9 386.7,579.7" fill="#f58aa8" fill-opacity="0.55"/>
<path d="M386.7 577.1l1.7 .2 1.8 .2 1.8-.2 1.8 .3 1.8 .9 1.7 .4 1.8 .1 1.8 .3 1.8-.2 1.8-.8 1.7-.7 1.8-.2 1.8 .2 1.8 .5 1.7 .1 1.8 .2 1.8 .6 1.8 .6 1.8 .1 1.7 .1 1.8 .1 1.8 .4 1.8 .3 1.8 .5 1.7 .5 1.8 .2 1.8 .7 1.8 1.4 1.8 1.4 1.7 1.1 1.8 1.9 1.8 2.7 1.8 2.3 1.7 2.7 1.8 3 1.8 2.6 1.8 2.1 1.8 2.2 1.7 2.4 1.8 2.2 1.8 1.7 1.8 1.4 1.8 1.1 1.7 1.2 1.8 2 1.8 2.6 1.8 2.3 1.8 2.2 1.7 2.2 1.8 1.8 1.8 1.9 1.8 2 1.8 2.1 1.7 1.9 1.8 1.5 1.8 1.4 1.8 .9 1.7 1.2 1.8 1.3 1.8 .7 1.8 .7 1.8 1.2 1.7 .8 1.8 .3 1.8 .5 1.8 1.3 1.8 .9 1.7 .7 1.8 .7 1.8 .3 1.8 1 1.8 .9 1.7 .5 1.8 .4 1.8 .1 1.8-.3 1.8-.5 1.7-.1 1.8-.4 1.8-.4 1.8-.6 1.7-.6 1.8-.7 1.8-1.2 1.8-.5 1.8-.8 1.7-1.4 1.8-1 1.8-.8" stroke="#ee1f5c" stroke-width="1.3" fill="none" stroke-opacity="1" stroke-linejoin="round"/>
<path d="M408.5 555.7V667" stroke="#f25c86" stroke-width="1.100" stroke-dasharray="4.400 1.800" fill="none"/>
</g>
<rect x="379.4" y="555.2" width="173.3" height="111.8" fill="none" stroke="#222" stroke-width=".8"/>
<path d="M408.5 667v2.200M454 667v2.200M499.5 667v2.200M545 667v2.200M385.8 667v1.300M431.2 667v1.300M476.8 667v1.300M522.2 667v1.300M379.4 667h-2.200M379.4 652.4h-2.200M379.4 637.9h-2.200M379.4 623.4h-2.200M379.4 608.8h-2.200M379.4 594.2h-2.200M379.4 579.7h-2.200M379.4 565.1h-2.200" stroke="#222" stroke-width=".6" fill="none"/>
<g font-size="7"><text x="408.5" y="675.3" text-anchor="middle">0.0</text><text x="454" y="675.3" text-anchor="middle">1.0</text><text x="499.5" y="675.3" text-anchor="middle">2.0</text><text x="545" y="675.3" text-anchor="middle">3.0</text><text x="376.2" y="669.4" text-anchor="end">−0.50</text><text x="376.2" y="654.8" text-anchor="end">−0.25</text><text x="376.2" y="640.3" text-anchor="end">0.00</text><text x="376.2" y="625.8" text-anchor="end">0.25</text><text x="376.2" y="611.2" text-anchor="end">0.50</text><text x="376.2" y="596.6" text-anchor="end">0.75</text><text x="376.2" y="582.1" text-anchor="end">1.00</text><text x="376.2" y="567.5" text-anchor="end">1.25</text><text x="455.6" y="683" text-anchor="middle">Time (h)</text><text transform="translate(355.5 615.7) rotate(-90)" text-anchor="middle">Normalized growth rate</text></g>
<rect x="382" y="641.2" width="82" height="23.3" rx="1" fill="#fff" fill-opacity=".8" stroke="#ccc" stroke-width=".5"/>
<g font-size="5.75"><path d="M384.5 644.2h10" stroke="#f2557f" stroke-width=".8" stroke-dasharray="2.800 1.200"/><text x="397.5" y="646.1">Drug addition</text><rect x="384.5" y="649.7" width="10" height="2.400" fill="#1f93d6" opacity=".35"/><path d="M384.5 650.9h10" stroke="#1f93d6" stroke-width=".9"/><text x="397.5" y="652.8">Reference (Mean±SEM)</text><path d="M384.5 657.6h10" stroke="#ee1f5c" stroke-width=".9"/><text x="397.5" y="659.5">Treatment (Mean±SEM)</text></g>
</svg>
</body></html>
